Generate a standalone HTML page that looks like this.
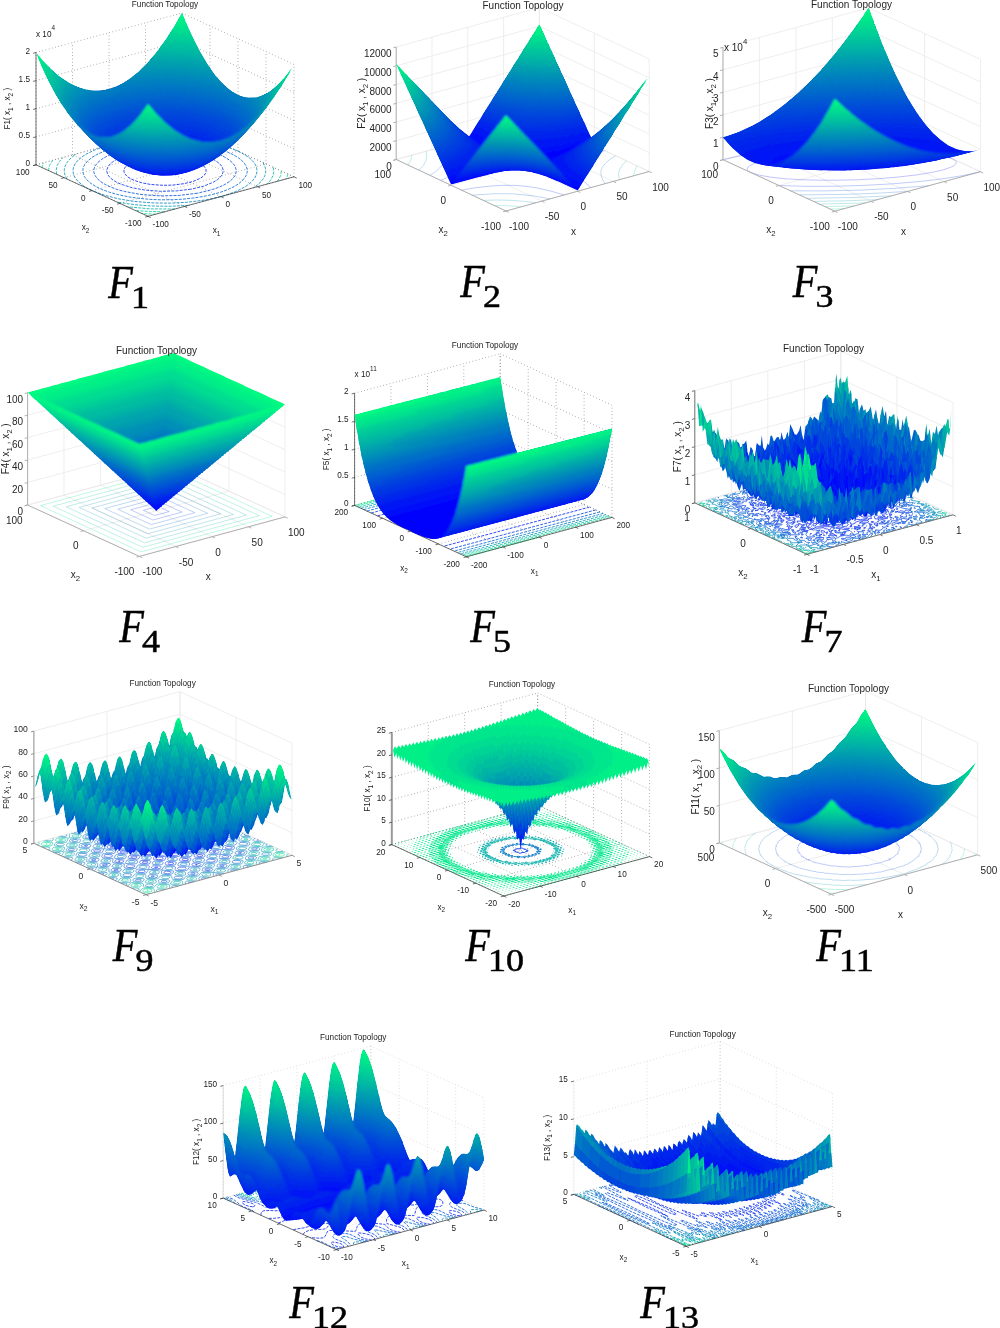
<!DOCTYPE html>
<html lang="en"><head><meta charset="utf-8"><title>Function Topology</title>
<style>html,body{margin:0;padding:0;background:#fff}svg{display:block}</style></head>
<body>
<svg width="1000" height="1328" viewBox="0 0 1000 1328" font-family="Liberation Sans, Arial, sans-serif">
<defs><filter id="sb" x="-5%" y="-5%" width="110%" height="110%"><feGaussianBlur stdDeviation="3.4"/></filter></defs>
<rect width="1000" height="1328" fill="#fff"/>
<g id="f1">
<path d="M148 216.3L36 164.8M36 164.8L36 52.5M184.5 206.4L72.5 155M72.5 155L72.5 42.6M221 196.6L109 145.1M109 145.1L109 32.7M257.5 186.7L145.5 135.2M145.5 135.2L145.5 22.9M294 176.8L182 125.4M182 125.4L182 13M148 216.3L294 176.8M294 176.8L294 64.5M120 203.4L266 163.9M266 163.9L266 51.6M92 190.6L238 151.1M238 151.1L238 38.7M64 177.7L210 138.2M210 138.2L210 25.9M36 164.8L182 125.4M182 125.4L182 13M36 164.8L182 125.4M182 125.4L294 176.8M36 136.8L182 97.3M182 97.3L294 148.7M36 108.7L182 69.2M182 69.2L294 120.6M36 80.6L182 41.1M182 41.1L294 92.5M36 52.5L182 13M182 13L294 64.5" fill="none" stroke="#444" stroke-width="0.6" stroke-dasharray="0.7 2.6"/>
<g transform="scale(.1)" fill="none" stroke-width="8" stroke-dasharray="30 12">
<path stroke="#001af2" d="M1838 1837l-110 14-99 2-120-8-91-17-83-26-59-33-30-33-7-23 1-16 8-19 16-19 46-32 75-30 94-21 93-10 111-2 108 8 91 16 71 22 63 32 22 18 16 21 6 15 1 20-6 18-11 17-24 21-23 14-68 29-91 22"/>
<path stroke="#0033e6" d="M1910 1892l-147 17-155 4-157-12-127-23-112-35-45-20-37-23-30-25-21-27-10-30 1-24 11-28 22-28 25-20 40-25 99-39 123-29 147-18 155-3 157 11 127 23 112 35 45 21 37 23 30 24 21 27 10 30-1 25-11 27-22 28-25 21-40 24-99 40-123 29"/>
<path stroke="#004cd9" d="M1974 1932l-182 22-192 5-190-14-163-30-75-20-64-24-55-26-46-28-35-32-24-34-10-30 2-33 14-33 25-31 37-30 46-28 59-26 67-23 154-35 187-21 179-3 182 14 163 29 75 21 64 23 55 26 46 29 35 31 20 27 13 36 0 32-11 30-23 31-30 27-49 31-57 27-65 23-152 37"/>
<path stroke="#0066cc" d="M2026 1966l-105 16-95 10-104 5-115 1-105-4-113-11-99-14-103-21-90-25-65-23-67-31-55-34-43-38-25-34-13-38 1-40 15-37 32-39 42-34 51-30 70-32 66-23 88-23 97-20 106-15 97-9 108-4 114 0 106 6 110 11 181 33 90 24 65 24 67 31 55 34 43 37 25 34 13 37 1 33-13 37-28 39-41 36-49 31-57 27-77 29-86 24-95 20"/>
<path stroke="#0080bf" d="M2210 1966l-157 34-174 22-174 10-184-3-180-15-153-25-141-36-127-47M2380 1511l52 27 45 28 31 25 30 32 18 28 11 31 3 33-7 32-16 33-24 31-31 28-41 29-48 26-58 27-135 45M920 1906l-52-27-45-29-37-31-27-30-18-31-9-30-1-33 8-32 17-32 28-32 33-28 38-26 100-49 135-45M1090 1451l157-34 174-23 174-9 184 2 180 16 153 25 141 35 127 48"/>
<path stroke="#0099b2" d="M1884 2054l-186 9-187-3-173-14-167-25M2630 1626l18 33 8 30 1 33-7 30-16 34-24 31-32 30-42 30M670 1791l-18-34-8-30-1-33 7-30 16-33 24-31 32-30 42-31M1416 1363l181-10 178 3 182 14 172 26"/>
<path stroke="#00b2a6" d="M1748 2090l-244-1-230-21M2734 1674l4 42-8 41-23 43-35 41M566 1743l-4-43 9-43 22-40 35-41M1552 1326l236 2 121 8 117 12"/>
<path stroke="#00cc99" d="M1645 2118l-140-3-151-10M2814 1710l-9 49-30 54M486 1706l3-27 8-27 28-48M1655 1298l140 3 151 11"/>
<path stroke="#00e68c" d="M1557 2142l-136-6M2881 1741l-18 48M419 1676l18-48M1743 1274l136 7"/>
</g>
<path d="M36 164.8L148 216.3L294 176.8" fill="none" stroke="#333" stroke-width="0.7"/>
<path d="M36 164.8L36 52.5" fill="none" stroke="#333" stroke-width="0.7"/>
<path d="M148 216.3l-2.9 0.8M120 203.4l-2.9 0.8M92 190.6l-2.9 0.8M64 177.7l-2.9 0.8M36 164.8l-2.9 0.8M148 216.3l2.7 1.3M184.5 206.4l2.7 1.3M221 196.6l2.7 1.3M257.5 186.7l2.7 1.3M294 176.8l2.7 1.3M36 164.8l-2.9 0.8M36 136.8l-2.9 0.8M36 108.7l-2.9 0.8M36 80.6l-2.9 0.8M36 52.5l-2.9 0.8" fill="none" stroke="#333" stroke-width="0.7"/>
<clipPath id="f1c"><path clip-rule="evenodd" d="M1056 230l-12 19-18 24-26 30-13 13-23 19-21 13-29 12-17 3-35-1-26-8-30-17-26-21-22-22-17-20-16-22-8-14-7-8-27-45-18-34-35-73-22-54-19 32-6 13-29 44-3 7-41 57-28 32-7 10-39 39-33 27-35 22-22 11-29 10-22 5-23 2-28-1-28-5-38-14-22-11-38-25-28-24-40-41-26-32 22 54 25 53 28 54 27 45 7 8 2 5 7 8 9 15 41 50 58 61 41 37 27 21 37 25 31 17 32 15 38 13 36 8 31 3 37 0 21-2 47-10 29-10 38-17 40-23 53-39 36-32 36-36 35-39 48-60 56-80 38-61z"/></clipPath>
<g transform="translate(30,7) scale(0.25)" fill-rule="evenodd">
<g id="f1s">
<path fill="#000bfa" d="M612 666l-4-3-9 3-2-1-15 4-1-1-3 1-2 3-1-2-6-1-3 1-2 3-4-3-40 1-4-2-16 0-4-2-7 1-1 2 35 4 37 0 21-2z"/>
<path fill="#0012f6" d="M645 654l-3-1-22 7-23 4-43 4-65-3-4-2-22-2-20-6-3 1 0 2 47 12 41 4 52-2 48-10 17-6z"/>
<path fill="#0019f3" d="M402 641l1 2 25 11 35 10 22 2 4 2 9 1 24 0 12 2 51-2 3-2 27-3 42-12 17-8-3-2-48 15-17 1-8 3-18 0-4 2-12-1-4 2-13 0-7-2-7 2-11 0-4-2-8 1-11-2-23-1-19-5-13-1-9-4-17-4-8-4-1 1-4-3z"/>
<path fill="#0020ef" d="M699 631l-3-1-24 11-11 2-13 5-18 3-11 0-11 4-14-1-6 3-27 0-4 2-12 0-7-2-29 1-4-2-6 1-4-2-9 2-6-3-5 1-6-3-9 1-6-3-8 0-6-3-14-1-31-11-4 2 32 14 12 2 8 4 14 1 19 5 23 1 11 2 8-1 4 2 12 0 3-2 10 2 14 0 3-2 13 1 3-2 19 0 7-3 11 0 10-2 3-2 19-4 24-8 22-10z"/>
<path fill="#0027ec" d="M723 618l-6 0-19 10-1-1-20 8-32 6-12 5-20 0-6 3-16-1-6 3-11-1-4 2-6-1-4 2-9-2-7 2-5-2-6 2-21 0-4-2-6 1-4-2-15 0-6-3-9 2-6-3-4 1-6-3-9 0-6-3-13 0-7-4-15-2-9-5-15-4-15-8-3 2 32 18 25 7 8 4 15 1 5 3 9 0 5 3 10-1 5 3 6-1 5 3 10-2 3 2 7-1 4 2 29-1 7 2 13 0 3-2 28 0 5-3 14 1 11-4 11 0 22-4 35-12 21-10zM598 506l1 4 4 3 34 16 21 7 34 7 32 0 4-3-1-4-11-3-29-16-7 5-14-10-3-1-7 4-9-8-3-1-6 4-6-6-3-1-6 4-4-2-3 1-3 3-6-7-3-1-3 1z"/>
<path fill="#002ee8" d="M1035 264l-15 20-18 20-21 20-24 18-34 17-17 5-35 1-14-2-21-7-14-7-18-11-17-13-31-30-17-20-16-22-8-14-7-8-27-45-35-68-18-39-20-49-17 27-9 18-26 39-3 7-41 57-28 32-7 10-39 39-33 27-35 22-24 12-29 10-22 5-23 2-28-1-28-5-38-14-24-12-38-25-39-35-29-30-16-20 16 40 25 53 28 54 27 45 7 8 2 5 7 8 9 15 41 50 58 61 41 37 27 21 10 6 4 6 21 14 20 10 15 4 12 6 15 2 6 4 14 0 5 3 10 0 5 3 5-1 5 3 10-2 5 3 5-1 5 3 6-2 5 3 4-2 5 2 22 0 3-2 6 2 5-2 13 2 3-2 7 1 3-2 12 1 5-3 17 1 5-3 20 0 8-4 20-3 16-4 18-7 1 1 1-2 2 1 19-9 20-12 4-6 13-8 51-41 52-51 35-39 48-60 16-24 15-19 25-37zM613 514l6-6 4 4 6-6 9 9 6-6 13 11 6-6 18 13 6-7 14 9 24 10-10 1 2 0 0 2-25 0-18-3-34-10-25-12 2-1zM601 507l3-3 6 7-2 1z"/>
<path fill="#0035e4" d="M1035 264l-15 20-18 20-21 20-24 18-34 17-17 5-35 1-14-2-21-7-14-7-18-11-17-13-31-30-17-20-16-22-8-14-7-8-27-45-35-68-18-39-20-49-17 27-9 18-26 39-3 7-41 57-28 32-7 10-39 39-33 27-35 22-24 12-29 10-22 5-23 2-28-1-28-5-38-14-24-12-38-25-39-35-29-30-16-20 16 40 25 53 28 54 27 45 7 8 15 24 44 54 31 34 46 45 22 19 28 21 0 3 30 19 16 8 21 5 11 6 11 0 5 4 14 0 6 4 10-1 5 3 4-1 6 4 10-2 5 3 5-2 5 3 10-3 5 3 4-2 5 2 6-2 5 3 6-3 11 5 4-3 6 2 4-3 13 3 3-2 6 1 5-3 12 2 4-3 18 1 4-3 18 0 4-4 26-2 28-8 22-9 2 1 14-7 1-2 8-3 18-12 6-8 23-17 36-32 36-36 35-39 48-60 16-24 15-19 25-37zM570 487l6-5 4 6 6-6 9 11 6-6 4 5 6-6 9 11 6-7 4 5 6-6 9 9 6-7 14 12 5-7 14 11 6-7 26 17 22 9 12 2 2 2-4 6-3 1-1 3-12 2-40 0-34-7-32-12-35-19-20-14 2-1z"/>
<path fill="#003ce1" d="M1035 264l-15 20-18 20-21 20-24 18-34 17-17 5-35 1-14-2-21-7-14-7-18-11-17-13-31-30-17-20-16-22-8-14-7-8-27-45-35-68-18-39-20-49-17 27-9 18-26 39-3 7-41 57-28 32-7 10-39 39-33 27-35 22-24 12-29 10-22 5-23 2-28-1-28-5-38-14-24-12-38-25-39-35-29-30-16-20 16 40 25 53 28 54 27 45 7 8 2 5 7 8 9 15 41 50 58 61 41 37 13 10-1 2 25 18 21 11 28 8 9 5 12 0 8 5 9-1 6 4 14-1 5 3 6 0 5 3 10-2 5 3 5-1 5 3 5-2 5 3 9-4 6 3 5-2 5 3 6-3 9 5 5-2 7 2 4-3 6 2 5-3 9 3 7-3 6 2 4-4 18 4 4-4 12 1 4-3 24 0 4-4 9 0 23-4 22-6 21-9 3 1 19-11 1 1 1-2 2 0 31-22 3-3-2-1 6-4 36-32 36-36 35-39 48-60 16-24 15-19 25-37zM312 515l3-1 13 3-2 2-3 0-1 3-3 0 0-2-3 0zM380 492l-5 4 2 1-2 2-36 18-5 1-1-2-3 2-5-8 3-1 8 2-4-7 1-1 22 0-4-7 1-1 8 0 18-4zM552 472l10-9 5 6 6-6 4 7 6-6 9 12 6-6 4 5 6-6 5 6 5-7 9 11 6-7 5 5 6-7 13 14 6-7 9 8 6-7 14 13 4 2 5-7 19 12 29 13 13 2 2 2-5 7 15 1 2 2-11 11-33 6-40 0-18-3-34-10-36-17-34-22-7-7-9-6 0-3z"/>
<path fill="#0043dd" d="M1035 264l-15 20-18 20-21 20-24 18-34 17-17 5-35 1-14-2-21-7-14-7-18-11-17-13-31-30-17-20-16-22-8-14-7-8-27-45-35-68-18-39-20-49-17 27-9 18-26 39-3 7-41 57-28 32-7 10-39 39-33 27-35 22-24 12-29 10-22 5-23 2-28-1-28-5-38-14-24-12-38-25-39-35-29-30-16-20 16 40 25 53 28 54 27 45 7 8 2 5 7 8 9 15 41 50 58 61 38 34-2 1 34 25 27 12 12 4 11 1 5 5 14 1 6 4 13 0 6 4 9-1 6 4 7-2 8 4 4-2 6 4 9-3 6 4 4-2 6 3 5-2 5 3 6-2 5 3 5-2 5 3 4-3 6 3 6-3 5 3 4-3 6 2 5-3 11 4 5-3 5 2 5-4 12 3 4-4 12 3 4-4 18 2 4-4 18 0 4-4 15 0 23-4 22-6 28-12 2 1 29-16 23-18-2-1 32-28 36-36 35-39 48-60 16-24 15-19 25-37zM414 463l-7 6 2-1 0 3-12 11-12 8-7 7-21 12-18 8-17 5-27 1-1-2-7-1 1-2 3 1-3-3 1-2 9 3-3-6 1-2 4 2-3-5 1-2 9 2-4-6 1-1 10 2-4-7 1-1 16 2-4-7 1-1 16 0-4-7 1-1 20-1 17-3 28-8 9-5zM528 451l5-5 4 7 6-5 5 7 5-6 5 7 6-6 4 7 6-6 4 6 6-6 5 7 6-7 4 6 6-6 4 6 6-7 9 11 6-7 5 6 5-7 9 10 6-7 9 9 6-7 13 13 6-8 14 12 6-8 18 13 21 11 17 6 13 2 2 2-5 6 13 2-5 7 12 1-4 7-3 2 0 2-27 9-29 5-40 0-18-3-34-10-36-17-34-22-40-34 0-3z"/>
<path fill="#004ada" d="M1035 264l-15 20-18 20-21 20-24 18-34 17-17 5-35 1-14-2-21-7-14-7-18-11-17-13-31-30-17-20-16-22-8-14-7-8-27-45-35-68-18-39-20-49-17 27-9 18-26 39-3 7-41 57-28 32-7 10-39 39-33 27-35 22-24 12-29 10-22 5-23 2-28-1-28-5-38-14-24-12-38-25-39-35-29-30-16-20 16 40 25 53 28 54 27 45 7 8 2 5 7 8 9 15 41 50 31 34 46 45 8 6-2 1 13 12 29 18 15 5 7 4 12 2 8 6 18 1 6 5 13 0 6 4 9-1 6 5 9-2 8 4 7-3 6 4 5-1 5 3 10-3 5 3 4-2 6 4 5-3 5 4 5-3 6 3 5-2 5 3 5-3 5 3 5-3 6 2 4-3 12 5 4-4 6 2 5-3 9 3 10-3 8 3 5-4 12 2 4-4 18 2 4-5 23 1 5-5 9 0 39-8 27-11 6 0 33-17 28-23-1-1 52-51 53-61 30-38 16-24 15-19 25-37zM431 444l-6 6 2-1 0 3-30 30-3 1-19 16-36 18-17 5-35 1-14-2-1-1 3-1-5-1-2-2 4 0-2-3 1-2 2 1-2-5 4 0-3-4 1-2 9 4-2-4 1-2 2 1-3-6 1-2 10 4-4-7 3-1 8 3-4-7 3-1 8 2-4-7 1-1 16 2-4-8 1-1 20 1 2-2-4-6 1-1 35-5 10-4 14-3 21-10 3 2 3 6 9-5zM510 432l3-3 5 8 6-6 4 8 12-11 4 7 6-6 5 8 6-6 4 7 6-7 4 7 6-6 5 7 6-7 4 6 6-6 4 6 6-7 9 12 6-7 4 6 6-7 9 11 6-8 9 10 6-7 9 9 6-7 13 12 6-8 14 13 4 2 6-8 14 10 21 11 17 6 8 1 2 2-4 7 16 2 1 1-5 7 10 0 1 1-4 6 8 0-5 6 7 0-7 4 2 1-24 11-22 7-29 5-40 0-34-7-18-6-36-17-34-22-40-34-13-14 1-2z"/>
<path fill="#0051d6" d="M1035 264l-15 20-18 20-21 20-24 18-34 17-17 5-35 1-14-2-21-7-14-7-18-11-17-13-31-30-17-20-16-22-8-14-7-8-27-45-35-68-18-39-20-49-17 27-9 18-26 39-3 7-41 57-28 32-7 10-39 39-33 27-35 22-24 12-29 10-22 5-23 2-28-1-28-5-38-14-24-12-38-25-39-35-29-30-16-20 16 40 25 53 28 54 27 45 7 8 2 5 7 8 9 15 41 50 31 34 38 37-2 1 8 8 15 12 19 11 22 10 19 4 6 6 17 1 6 5 14 0 6 5 9-1 5 4 6 0 3-2 6 5 9-3 7 5 8-4 6 5 4-2 6 4 5-2 5 3 10-4 5 3 6-2 5 3 4-3 6 4 4-3 6 3 5-3 10 5 6-3 6 3 4-4 6 2 4-3 11 4 7-4 10 4 5-4 11 3 5-5 12 2 4-4 18 2 4-5 20 1 12-6 10 0 28-6 29-10 7-4 2 1-2 2 17-9 2 1 14-8 1-2 2 0 20-14 14-14-2-1 38-37 53-61 30-38 16-24 15-19 25-37zM447 423l-4 6 2-2 1 2-10 13-18 20-21 20-3 1-19 16-36 18-17 5-35 1-14-2-19-7-1-1 2-1-3 0-3-3 4 0-2-3 1-2 3 2-3-4 4 0-3-3 1-2 3 1-2-3 1-2 8 4-3-6 1-1 4 2-3-4 1-2 3 1-3-5 1-2 9 4-3-6 1-2 10 4-3-6 1-2 9 2-4-7 1-1 10 2-4-7 1-1 17 2-4-7 1-2 21 0-4-8 1-1 26-3 21-5 15-5 19-9 5 9 23-13 4 8 7-4zM498 419l6-6 5 8 12-11 4 8 6-5 4 7 6-6 5 8 11-12 5 7 6-6 4 7 6-6 5 7 5-7 5 7 6-7 9 13 6-7 4 6 6-7 4 6 6-7 9 11 6-7 9 11 6-8 9 10 6-8 9 10 5-9 14 13 6-8 18 15 5-9 19 13 12 6 18 7 12 2 2 2-5 8 16 1 1 1-5 8 12-1 1 1-5 7 8 0-5 7 7 0-4 6 3-2 4 1-4 4 2 1-7 5-30 14-27 9-29 5-40 0-34-7-18-6-36-17-34-22-40-34-32-33z"/>
<path fill="#0059d3" d="M1035 264l-15 20-18 20-21 20-24 18-34 17-17 5-35 1-14-2-21-7-14-7-18-11-17-13-31-30-17-20-16-22-8-14-7-8-27-45-35-68-18-39-20-49-17 27-9 18-26 39-3 7-41 57-28 32-7 10-39 39-33 27-35 22-24 12-29 10-22 5-23 2-28-1-28-5-38-14-24-12-38-25-39-35-29-30-16-20 16 40 25 53 28 54 27 45 7 8 2 5 7 8 9 15 41 50 53 56-2 1 18 17 18 13-1-1 2-1 6 5 12 6 21 7 8 7 7 2 15 1 6 6 14 0 5 5 14-2 6 6 9-2 5 5 9-3 7 5 8-4 6 5 5-2 5 4 9-4 6 4 5-2 6 4 4-3 6 4 4-3 6 4 5-3 5 3 5-3 6 3 5-3 5 3 5-4 5 3 6-3 10 5 5-4 6 3 4-4 11 4 6-4 11 3 5-4 11 3 5-5 17 3 5-5 17 2 5-5 29-1 5-6 8 0 8-3 14-2 24-9 2 1-2 3 25-13 2 1-2 2 12-8 2 1 12-9 1 1 23-18 11-11-2-1 45-47 41-49 53-71 25-37zM464 399l-3 5 2 1-1 3-26 34-31 33-20 15-7 7-21 12-18 8-17 5-35 1-14-2-21-7-9-5 0-2-5-5 1-2 3 2-3-3 1-2 3 2-3-3 1-2 3 1-2-4 1-1 3 2-3-5 1-1 3 2-3-5 4 0-2-3 1-2 3 1-3-5 2-1 8 4-3-6 2-1 3 2-4-8 1-1 10 5-4-8 1-1 10 4-3-6 1-2 9 2-4-7 1-1 16 3-4-8 17 0-4-8 1-1 28-1-4-8 1-2 18-2 39-13 2 1 4 8 16-7 12-8 5 10 17-11 5 9 17-13zM487 404l9-8 5 8 11-10 4 8 6-5 4 8 12-12 5 8 5-6 5 7 6-6 4 8 6-7 5 7 5-6 5 7 6-7 4 7 6-7 5 7 5-8 5 7 6-7 9 12 6-7 4 6 6-8 9 12 6-8 9 11 5-8 9 10 6-8 14 14 6-9 9 10 4 2 6-8 22 17 6-9 17 10 18 8 8 2 2 2-5 7 20 4 1 1-4 8 12 1-5 7 12-2 1 1-5 8 7-2 1 1-5 7 6-2 1 1-4 6 5-1 1 2-6 6 2 1-19 12-30 14-27 9-29 5-40 0-34-7-18-6-36-17-34-22-40-34-34-35-9-12z"/>
<path fill="#0060cf" d="M1035 264l-15 20-18 20-21 20-24 18-34 17-17 5-35 1-14-2-21-7-14-7-18-11-17-13-31-30-17-20-16-22-8-14-7-8-27-45-35-68-18-39-20-49-17 27-9 18-26 39-3 7-41 57-28 32-7 10-39 39-33 27-35 22-24 12-29 10-22 5-23 2-28-1-28-5-38-14-24-12-38-25-39-35-29-30-16-20 16 40 25 53 28 54 27 45 16 21 6 11 23 29 38 44 23 24-2 1 15 15 22 17 13 8 30 13 17 4 6 0 6 6 3 1 15 0 6 5 13-1 6 5 9-2 6 5 9-2 6 5 9-3 5 4 5-1 6 4 9-4 6 4 4-2 6 4 4-2 6 4 5-3 5 4 9-6 6 4 5-4 11 8 5-4 6 3 5-3 5 3 5-4 5 3 6-4 11 5 4-4 6 2 4-4 12 4 5-5 11 4 5-5 11 3 5-5 17 3 5-5 23 2 5-6 14 0 24-3 33-9 30-14 2 1-2 2 18-11 2 1 11-8 3 0 27-22-1-2 41-43 41-49 53-71 25-37zM475 388l-1 2-2-2-1 1 0 6-35 47-31 33-30 24-36 18-17 5-9 1-35-1-32-11-18-10 2-1-5-5 3 0-2-2 1-2 3 2-3-3 2-1 2 2-2-3 1-2 3 2-7-10 1-2 2 1-2-4 2-1 8 5-3-4 1-2 3 2-3-5 4 0-3-6 1-1 4 2-3-6 2-1 8 4-3-4 1-2 4 1-4-7 1-2 10 5-4-7 1-2 10 4-4-8 1-1 10 3-4-8 1-2 16 4-4-8 1-2 22 2-4-8 1-2 20 0 39-8 29-11 16-9 5 9 11-5 12-9 5 9 17-12 5 9 11-9zM474 390l13-11 5 8 11-10 4 8 6-5 5 8 11-11 5 8 6-6 4 8 6-7 4 8 6-6 5 7 11-13 5 7 6-7 9 15 5-7 5 7 6-8 4 7 6-8 5 7 5-8 9 13 6-8 5 6 6-8 8 12 6-9 9 11 6-8 9 10 6-9 13 14 6-8 18 16 6-9 14 11 21 12 18 8 27 6 1 1-5 8 17 1-5 8 11 0-4 7 7 0-3 6 6-2 2 1-5 7 6-3 2 1-5 6 1 3-3 4 5-3 2 1-7 6 1 1-31 20-30 14-27 9-29 5-40 0-34-7-18-6-36-17-34-22-40-34-34-35-22-27z"/>
<path fill="#0067cc" d="M1035 264l-15 20-18 20-21 20-24 18-34 17-17 5-35 1-14-2-21-7-14-7-18-11-17-13-31-30-17-20-16-22-8-14-7-8-27-45-35-68-18-39-20-49-17 27-9 18-26 39-3 7-41 57-28 32-7 10-39 39-33 27-35 22-24 12-29 10-22 5-23 2-28-1-28-5-38-14-24-12-38-25-39-35-29-30-16-20 16 40 25 53 28 54 27 45 7 8 15 24 56 68 17 17-2 1 13 14 20 17 6 1 6 5 21 11 17 6 8 1 8 7 18 2 6 6 18-1 6 6 9-2 6 6 9-3 5 6 9-3 7 5 8-4 6 6 9-5 6 5 4-3 6 5 5-2 5 4 9-6 6 5 5-4 6 5 4-4 6 4 4-3 6 4 5-4 6 4 5-4 11 7 4-5 6 4 5-5 5 3 5-4 11 5 5-4 12 4 4-5 12 4 4-5 12 4 4-5 12 2 5-5 23 3 4-6 21 1 3-1 4-5 15-1 27-6 24-8 14-7 2 1-2 3 18-10 0 3 18-12 2 1 7-6 1 1 4-4 3 0 6-6 1 1 26-27-2-1 33-36 26-32 53-71 25-37zM213 485l2-1 2 2-3-3 2-1 2 2-2-3 1-1 3 2-7-10 3 0-2-3 1-2 3 2-3-4 1-1 3 2-2-4 3 0-3-5 2-1 3 2-3-5 2-1 9 6-4-7 4 0-3-5 1-2 4 2-3-5 1-2 8 4-2-5 1-2 10 4-4-7 1-2 10 4-4-8 3-1 8 3-4-8 3-1 8 2-4-8 1-1 22 3-4-8 1-2 22 0-4-8 1-2 19-1 22-5 29-10 11-6 5 10 23-13 4 9 2 0 15-9 6-6 5 10 12-9 4 8 2 0 10-8 5 8 11-9 5 8 11-11 5 9 11-12 5 9 6-6 4 8 6-6 4 8 12-13 5 8 5-7 5 8 6-7 4 8 6-7 4 7 6-7 5 7 6-8 9 15 5-8 5 7 6-8 4 6 6-8 9 13 6-8 9 12 6-9 9 11 5-8 9 10 6-8 9 9 6-9 18 18 6-9 18 14 6-9 30 19 18 7 12 2 2 2-5 8 16 2 1 1-4 8 14 0 1 2-3 6 8 0-5 7 6-2 2 1-5 8 7-3 1 1-5 7 6-3 1 2-4 5 4-2 2 1-3 4 3 1-13 16-35 22-35 16-22 7-29 5-40 0-34-7-32-12-22-11-34-22-40-34-34-35-11-15-13-14-10 16-26 34-31 33-30 24-36 18-17 5-9 1-26 0-14-2-21-7-23-12-14-10 2-1z"/>
<path fill="#006ec8" d="M1035 264l-15 20-18 20-21 20-24 18-34 17-17 5-35 1-14-2-21-7-14-7-18-11-17-13-31-30-17-20-16-22-8-14-7-8-27-45-35-68-18-39-20-49-17 27-9 18-26 39-3 7-41 57-28 32-7 10-39 39-33 27-35 22-24 12-29 10-22 5-23 2-28-1-28-5-38-14-24-12-38-25-39-35-29-30-16-20 16 40 25 53 28 54 27 45 16 21 6 11 39 47 8 13 14 12 1 2-2 1 21 21 28 20 6 3-1-2 2-1 11 5 13 10 11 2 3 2 18 2 6 6 3 1 15-1 6 6 9-1 5 6 14-3 6 6 9-3 6 5 9-3 5 5 5-2 6 5 9-5 5 5 5-2 6 5 9-6 6 5 4-4 6 5 4-3 6 4 5-4 6 5 4-4 6 4 4-4 6 4 5-4 6 3 4-4 12 7 4-4 6 3 4-5 12 6 5-5 5 3 5-5 11 4 5-5 12 4 4-5 18 5 4-6 12 2 4-6 24 3 4-6 21 0 26-4 6-7 11-2 7-3 3 1-3 4 18-6 26-14 2 1-2 3 18-12 0 3 6-5 2 1 11-9 3 0 6-6 1 1 27-28-2-1 23-25 48-60 56-80zM877 460l-3 5 1 2-3 3 4 0-8 10-8 5-7 7-35 22-30 14-23 8-33 6-40 0-18-3-34-10-36-17-34-22-28-23-46-46-23-29-37 50-31 33-30 24-18 10-27 11-17 3-26 0-14-2-21-7-23-12-20-15 2-1-5-5 2-1-4-5 1-2 1 1-2-2 1-1 3 2-7-10 1-2 3 2-3-3 1-2 3 2-2-3 3 0-2-4 1-1 3 2-3-4 1-2 3 2-3-5 2-1 3 2-3-4 1-2 3 1-3-5 1-1 10 6-4-7 4 0-3-6 1-1 10 5-3-6 1-2 3 1-3-6 3-1 8 4-4-8 1-2 10 4-4-7 1-2 16 5-4-9 3-1 8 2-4-9 3-1 20 3-4-8 1-2 37-2 7-2 1-2-4-7 1-2 23-6 5 10 15-5 31-16 5 10 23-15 4 9 2 0 10-8 4 9 2 0 16-13 4 8 12-9 5 8 11-10 5 9 5-5 5 9 12-13 4 8 6-5 5 8 11-13 5 9 5-7 5 8 6-7 4 8 6-7 5 8 5-8 5 8 6-7 4 7 6-8 4 8 6-8 7 9 2 5 6-8 5 7 5-9 9 13 6-8 5 6 6-9 9 12 5-8 9 11 6-9 14 15 5-9 9 10 6-10 18 17 6-9 23 18 13 7 4-8 3-2 17 9-5 8 1 2 23 6 10 1 1 1-5 7 2 2 14-1 1 1-5 8 8 0-5 8 6-2 5 1-3 7 5-2 2 1-4 7 5-3 2 1-4 6 1 3-3 4 5-3z"/>
<path fill="#0075c5" d="M1035 264l-15 20-18 20-21 20-24 18-34 17-17 5-35 1-14-2-21-7-14-7-18-11-17-13-31-30-17-20-16-22-8-14-7-8-27-45-35-68-18-39-20-49-17 27-9 18-26 39-3 7-41 57-28 32-7 10-39 39-33 27-35 22-24 12-29 10-22 5-23 2-28-1-28-5-38-14-24-12-38-25-39-35-29-30-16-20 25 60 44 87 27 45 16 21 6 11 28 34 9 15 9 10 3 1 2-1-9-14 1-2 2 2-3-3 1-1 3 2 0-3 2 2-6-9 1-2 1 1-2-4 1-1 3 2-3-4 1-1 3 2-2-3 1-2 2 2-3-5 2-1 3 2-3-5 1-1 4 3-4-7 2-1 3 2-3-4 1-2 9 5-3-5 1-2 4 2-3-5 1-2 3 2-4-8 1-2 10 5-3-6 2-1 8 4-3-6 1-2 10 3-4-8 1-2 10 4-4-8 1-2 16 4-4-8 1-2 16 3-4-9 1-2 28 1-4-8 3-3 11 0 22-4 9-4 8-1 27-12 2 1 5 9 28-16 4 9 2 0 16-11 5 9 17-13 4 9 12-9 5 10 11-11 5 10 11-12 5 10 12-13 4 9 6-6 4 8 6-5 5 8 11-13 5 8 6-7 4 8 6-6 5 8 5-8 5 9 6-8 4 8 6-8 5 8 5-8 5 7 6-8 9 15 5-9 5 7 6-8 4 7 6-9 9 13 6-9 9 13 6-9 9 11 6-9 8 11 6-9 14 15 6-10 13 14 6-10 22 19 6-10 18 12 8 3 9 6 28 9-5 8 6 2 14 0 1 1-5 9 12-1 1 1-5 8 12-2 1 1-5 8 5-2 2 2-4 7 6-3 1 2-4 6 5-3 2 1-4 7 5-3 2 1-4 5 2-1 1 2-4 5 2 1-3 4 4-3 2 1-6 7 2 1-32 27-35 22-30 14-23 8-33 6-40 0-18-3-34-10-36-17-34-22-28-23-46-46-23-29-37 50-31 33-30 24-36 18-17 5-9 1-26 0-14-2-21-7-21-11-10-8-5-2-6-6-6 0 8 9 10 8-1 1 1-1 15 13-1-2 2-1 15 11 12 6 18 7 14 3 6 7 22 2 6 6 13-1 6 6 14-2 6 6 9-3 5 6 9-3 6 6 9-4 7 5 8-5 6 6 4-3 6 6 5-3 5 5 9-6 6 5 5-4 6 5 4-4 6 5 4-4 6 5 5-4 6 4 4-4 6 4 4-4 6 3 5-4 11 7 5-4 6 3 4-5 6 3 4-5 12 6 5-5 11 5 5-6 11 5 5-6 12 4 4-6 18 4 4-6 18 3 4-6 26 1 3-1 5-6 8 0 34-6 23-8 14-7 2 1-3 4 16-8 10-7 2 1-2 3 13-10 2 1-2 3 11-10 3 1 5-5 1 1 6-6 2 0 25-25-2-2 15-16 26-32 53-71 25-37z"/>
<path fill="#007cc1" d="M1035 264l-15 20-18 20-21 20-24 18-34 17-17 5-35 1-1-3-13-1-21-7-30-17-12-10-3 1-35-33-17-20-16-22-8-14-7-8-27-45-35-68-18-39-20-49-17 27-9 18-26 39-3 7-41 57-28 32-7 10-39 39-33 27-37 23-3-1-19 10-29 10-22 5-29 2-1 2-9 0-40-6-38-14-24-12-38-25-39-35-29-30-16-20 16 40 25 53 28 54 27 45 16 21 6 11 17 21 4 9 30 35 9 7 7 8 5 1 15 12 22 12 18 7 28 5 5 7 18-1 6 7 14-2 5 6 9-2 6 6 9-3 6 7 9-4 7 6 8-5 7 6 8-5 5 6 5-3 6 5 4-3 6 6 9-7 6 5 4-3 6 5 5-4 6 5 4-4 6 4 4-4 6 5 5-5 5 4 5-4 6 4 4-5 12 8 4-5 6 4 5-5 6 3 4-5 12 6 4-5 12 5 4-6 11 5 6-6 11 4 5-5 11 3 5-6 17 3 5-6 10 2 13 0 5-6 32-1 21-4 10-4 11-2 9-5 17-6 13-8 2 1-1 3 18-12 2 1-1 2 12-9 2 1 5-5 2 1 5-5 2 0 8-6 24-25-2-1 53-65 16-24 15-19 25-37zM181 438l1-1 2 2-2-3 1-2 2 2-2-3 1-2 3 2-3-4 1-2 3 2-3-5 2-1 3 2-3-4 1-2 3 2-3-5 1-1 4 3-4-7 2-1 9 7-4-7 1-2 4 2-3-5 1-2 4 2-4-7 1-2 10 6-4-8 1-1 10 4-4-7 1-2 10 5-4-9 1-1 10 4-4-8 1-2 11 4-4-9 1-2 3 2 13 2-4-8 1-2 22 2-4-9 1-2 25 0 39-8 29-11 22-12 6 10 22-15 5 10 5-2 12-10 5 10 11-10 5 10 12-10 5 9 11-10 4 8 3-1 9-9 5 8 11-11 4 8 6-6 5 10 6-7 5 8 11-13 4 8 6-6 5 8 5-7 5 8 6-7 4 8 6-8 5 8 5-8 5 8 6-8 4 8 6-9 9 15 6-8 4 7 6-9 5 7 5-9 7 9 2 5 6-9 7 8 2 5 6-10 9 12 6-9 9 11 6-9 9 10 5-9 14 14 6-10 18 17 6-10 18 15 21 12 18 8 11 2 3 2 17 2 1 1-5 9 16 0 1 1-5 9 7-2 6 1-5 8 6-2 2 1-5 8 6-2 1 1-4 8 6-3 1 1-4 7 6-3 1 2-4 5 6-3 1 1-3 5 1 3-3 3 2-1 1 2-4 5 4-4 2 2-3 3 2 1-2 2 1 2-11 11-33 27-18 12-5 0-13 9-17 8-39 14-29 5-40 2-18-3-34-10-36-17-34-22-45-39-29-30-23-29-37 50-18 20-21 20-12 8-7 7-17 10-22 10-17 5-31 1-5-3-13-1-21-7-21-11-26-19-16-15 0-3-4-5 1-2-3-3 1-2-2-3 2-1 2 2-3-3 1-1 3 2z"/>
<path fill="#0083bd" d="M284 520l6 8 22 0 6 8 13-2 6 7 14-3 6 6 9-3 5 7 9-4 6 7 9-5 7 6 8-5 6 6 4-3 6 6 5-3 5 6 9-7 6 6 5-4 6 5 4-3 6 5 4-4 6 5 5-4 5 4 5-4 6 5 4-5 6 5 5-5 5 4 5-5 6 4 4-5 12 8 4-5 6 3 6-5 5 3 4-5 12 6 5-6 11 6 4-6 12 4 5-6 11 4 5-6 17 5 5-7 9 3 8 0 5-6 29 1 4-7-25 0-13-3-2 2-3 0-34-10-36-17-34-22-28-23-46-46-23-29-29 40-26 30-13 13-20 15-7 7-21 12-18 8-17 5-5 0-2-2zM1035 264l-15 20-18 20-21 20-24 18-34 17-17 5-7 0-1-2-31 1-4 9 20 1 1 1-5 9 11-1 1 2-4 7 5 0 6-3 2 1-5 8 7 0-4 8 6-3 1 2-4 6 5-3 2 1-4 7 5-3 2 1-4 5 2 0 1 2-4 5 2 1-3 4 4-3 2 1-3 4 1 2-3 3 2 2-5 6 2 1-19 19-28 22-3 0-22 16-20 11-6 8 10-5 14-10 4 0-2 3 13-9 0 3 12-10 2 1 5-5 2 1 13-12 1 1 14-14 8-11-2-1 17-19 54-73 25-37zM32 195l16 40 25 53 28 54 27 45 16 21 6 11 8 9 2 7 11 14 28 31 1-1 15 13-5-7-14-11-18-19 1-1-9-14 1-2 2 2 1-1-2-3 1-1 3 2-6-8 1-2 1 1-2-3 1-2 3 3-3-4 2-1 2 2-2-3 1-2 2 2-3-5 2-1 3 2-3-4 1-1 4 3-4-7 2-1 3 2-3-4 1-2 3 2-3-6 1-1 4 3-4-7 2-1 9 6-4-7 2-1 3 2-4-7 1-2 5 3-4-8 1-1 10 6-4-8 1-2 11 6-5-9 1-2 10 5-4-9 1-1 10 4-4-8 1-2 17 4-4-8 1-2 16 3-4-9 1-2 28 2-5-10-25-1-13-3-1 2-14-2-24-8-38-18-38-25-28-24-40-41zM795 329l-29-27-2 1-25-28-16-22-8-14-7-8-27-45-35-68-18-39-20-49-17 27-9 18-26 39-3 7-41 57-28 32-7 10-39 39-33 27-6 1-14 10-21 12 4 10 22-12 6-5 5 10 11-6 6-6 6 10 16-13 5 10 12-10 5 9 11-10 5 9 11-11 5 9 11-12 5 10 5-6 5 9 6-7 4 9 12-13 4 8 6-6 5 9 5-8 5 9 6-7 4 8 6-8 5 9 5-8 5 8 6-8 4 8 6-8 5 8 5-9 5 8 6-9 9 15 6-9 4 7 6-9 4 7 6-9 7 9 2 5 6-10 9 13 6-10 9 12 6-9 9 10 5-9 14 16 6-11 13 14 6-10 22 20z"/>
<path fill="#008aba" d="M907 450l-6 0-9 9-6 3-39 31-4 6 13-9 0 3 12-10 2 1 7-7 1 1 5-5 1 1 18-17zM311 521l6 7 13-2 6 7 10-2 3-2 6 7 9-3 6 7 9-5 7 7 8-5 6 7 4-3 6 6 9-6 6 6 4-3 6 6 9-7 6 6 4-4 6 5 5-4 5 6 5-4 6 5 4-5 6 5 5-4 5 5 5-5 6 5 4-5 6 4 5-5 5 4 5-5 12 8 4-5 6 3 4-5 12 7 5-6 5 3 5-6 12 6 4-6 12 5 4-6 12 4 4-6 18 5 4-7 18 4 4-7-25-6-5 1-12-4-36-17-34-22-45-39-29-30-23-29-37 50-18 20-21 20-12 8-7 7-21 12-18 8-8 0-9 3zM1035 264l-15 20-31 33-23 19-21 13-22 10-8 0-9 3-8 0-4 2-4 8 11 0-4 8 12-3 1 1-5 9 6-3 1 2-4 7 6-3 1 1-4 8 5-3 2 1-4 6 2-1 1 2-4 5 5-3 2 1-4 6 3 0-4 5 5-4 2 1-4 5 0 6-4 8 5 0 9-10 4-9 9-10 56-80zM32 195l25 60 44 87 27 45 16 21 5 9-1 3 28 35 11 11-19-22-2-4 1-1-3-3 1-2 2 0-6-8 1-2 2 2-2-2 1-2 2 2-6-10 1-1 2 2-2-3 1-2 2 2-2-3 1-2 3 3-2-3 1-2 3 3-3-5 1-2 3 2-3-4 1-2 3 2-3-5 1-1 4 3-3-6 2-1 2 2-3-5 1-2 3 2-4-7 2-1 10 7-4-7 2-1 3 2-4-8 1-1 10 6-4-7 1-2 5 3-4-8 1-1 10 5-4-8 1-2 10 5-4-9 1-2 11 5-5-9 1-2 16 5-4-8 1-2 17 3-5-10-18-3-7-3-2 2-29-11-24-12-38-25-39-35-29-30zM768 305l-19-23-2 1-8-8-9-12-15-24-7-8-27-45-44-87-29-69-17 27-9 18-26 39-3 7-45 62-24 27-7 10-39 39-12 10-3-1-24 19 3 10 2 0 16-12 5 10 17-14 4 9 12-9 5 9 11-10 5 10 11-12 5 10 6-6 5 8 11-12 4 9 6-6 5 10 11-15 5 10 6-8 4 8 6-6 4 8 6-7 5 9 5-8 5 8 6-8 4 8 6-8 5 9 5-9 5 8 6-8 4 7 6-8 5 6 4 9 6-9 4 7 6-9 7 9 2 5 6-9 4 7 6-10 9 13 6-10 9 13 6-10 9 11 6-10 13 16 6-10 13 15z"/>
<path fill="#0091b6" d="M329 518l6 7 13-4 6 7 9-4 6 7 9-5 6 7 8-5 6 6 5-2 6 6 9-6 5 6 5-4 6 7 9-8 5 6 5-4 6 6 4-4 6 5 5-4 5 5 5-4 6 5 4-5 6 5 5-5 5 5 5-5 6 5 4-6 6 5 5-6 11 9 5-6 6 4 4-6 12 8 4-6 6 3 4-6 12 6 5-6 10 5 6-6 11 5 5-7 17 6 5-7-19-6-7-4-1 2-6-2-22-11-34-22-45-39-29-30-23-29-37 50-31 33-35 27-18 9-3-1zM934 352l-21 8-5 8 1 1 9-3 1 2-4 7 6-3 1 1-4 8 6-3 1 1-4 8 6-4 2 1-4 6 2 1-4 6 6-3 1 1-3 5 2 1-4 5 5-4 1 1-3 5 1-1 1 2-3 3 0 6-4 6 1 2-4 5-2 0-3 5-5 2-26 26-13 10-4 7 11-10 3 1 20-17 2 0 20-24-2-1 1-2 9-7 8-11 5-15-1-4-2-1 3-10-4-4 2-6-6-8 0-5-3-1zM32 195l25 60 44 87 27 45 7 8 4 7-1 3 4 4 9 15 15 18-5-6-7-13 2-3 1 1-3-1 0-3-4-7 1-1 3 3 1-1-7-11 1-2 3 3-2-3 1-1 2 2-2-4 1-1 2 2-2-3 1-2 3 2-2-3 1-2 3 3-3-5 1-2 3 2-3-5 1-1 3 2-3-6 2-1 3 3-4-7 2-1 3 2-3-5 1-2 9 6-4-7 2-1 4 3-4-8 1-1 10 7-4-9 2-1 3 2-4-8 1-1 11 6-5-9 1-2 11 6-4-9 1-1 10 4-4-9 1-2 16 6-4-10-19-6-5-3-3 1-6-2-24-12-38-25-39-35-29-30zM750 286l-1-4-8-8-9-13-3 0-6-8-8-14-7-8-27-45-44-87-29-69-17 27-9 18-26 39-3 7-41 57-28 32-7 10-28 28-3-1-10 11-14 11 4 10 17-14 5 10 11-10 5 10 11-12 6 10 11-12 4 10 6-6 5 9 11-13 5 10 5-7 5 10 12-15 4 9 6-7 4 9 6-7 5 9 6-8 4 8 6-7 4 8 6-8 5 9 5-9 5 9 6-9 4 8 6-8 5 8 5-9 9 15 6-9 5 8 6-10 9 14 5-9 5 7 6-10 9 13 5-9 7 8 2 5 6-10 9 12 6-11 13 16z"/>
<path fill="#0098b3" d="M933 418l-4 0-35 36-4 6 13-11 1 1 0-2 9-8 0 3zM347 511l5 8 9-4 6 7 9-5 6 7 9-6 6 7 4-3 6 7 9-7 6 6 4-3 6 6 5-4 6 6 9-8 5 6 5-4 6 5 4-4 6 5 5-4 5 5 5-5 6 5 4-5 6 5 5-5 5 5 5-6 12 9 4-5 6 4 4-6 6 4 5-5 11 7 5-6 6 4 4-7 12 7 4-7 12 6 4-6 12 5 5-7-21-10-1 2-10-5-34-22-7-7-9-6-24-21-34-35-23-29-37 50-31 33-30 24-9 5-3-1zM1035 264l-15 20-18 20-21 20-24 18-9 5-3-1-15 8-4 9 5-3 2 2-4 7 6-4 1 2-4 7 6-4 1 1-4 7 2-1 1 2-4 5 6-4 1 1-4 6 2 1-5 10 3-1 0 2 3 0-4 5 1 3-4 5 5 0 11-15 4-10 19-25 25-37zM32 195l25 60 26 53 18 34 25 40 4 11 12 16 6 11 4 3-8-14 2-2-4-6 1-2-2-4 1-1 3 3-2-3 1-1 2 2-7-12 1-1 3 3-2-3 1-2 3 3-3-5 1-2 3 3-2-3 1-2 2 2-3-5 2-1 3 3-3-5 1-2 3 2-3-5 1-2 3 2-3-5 1-2 10 8-4-8 2-1 3 2-4-7 1-1 4 2-4-7 2-1 10 7-4-8 2-1 3 2-4-9 1-1 10 5-4-7 1-2 11 6-5-10 1-1 11 5-4-10-19-9-3 1-12-6-38-25-39-35-29-30zM732 263l0-2-13-19-3-1-8-10-33-56-38-76-29-69-17 27-9 18-26 39-3 7-30 40-5 9-41 50-11 11-1-2-20 19 4 10 3-1 9-9 5 10 11-11 5 9 11-12 4 10 6-6 5 10 11-14 5 10 6-7 4 9 6-6 5 9 11-15 5 9 6-8 4 9 6-7 4 8 6-7 5 9 5-9 5 9 6-9 4 8 6-8 5 8 5-9 9 17 6-10 5 8 6-9 4 8 6-10 9 15 6-10 4 7 6-10 7 9 2 5 6-10 9 13 6-10 8 11z"/>
<path fill="#009faf" d="M360 505l6 7 9-5 6 7 4-3 6 7 9-6 6 7 4-4 6 7 9-8 6 7 4-4 6 6 5-4 6 6 9-9 5 6 5-5 6 6 4-5 6 6 5-5 5 5 5-5 6 5 4-5 12 9 4-5 6 4 5-5 5 4 5-6 12 9 4-7 6 4 4-6 12 7 5-6 5 3 5-6 12 6 4-7-14-8-3 1-3-3-7-3-21-14-28-23-46-46-23-29-29 40-26 30-13 13-20 15-10 9-3-1zM956 341l-11 5-6 9 5-2 2 1-4 6 2 0 1 2-4 6 5-4 2 1-4 6 2-1 1 2-4 6 5-5 2 1-6 11 3 0-4 5 4-3 0 7-2 1 1 1-4 6-31 35-2 4 5-5 2 1 0-2 9-9 2 0 28-37 8-27-1-4-3-2 2-5-6-7zM32 195l25 60 26 53 18 34 19 31-1 3 7 12 7 8 2 5 4 0-4-6 2-3-5-12 1-2 3 3-2-2 1-2 2 2-7-13 1-1 3 3-2-3 1-2 3 3-3-6 2-1 2 2-3-5 2-1 2 2-3-5 1-1 4 3-3-5 1-2 9 8-4-8 2-1 3 2-3-5 1-2 4 3-4-8 1-1 10 7-4-8 2-1 3 2-4-7 1-2 11 7-5-9 2-1 4 3-4-9 1-2 10 6-4-10-13-7-3 1-38-25-39-35-29-30zM608 30l-17 27-9 18-26 39-3 7-30 40-5 9-40 48-2-1-13 14 3 10 12-12 5 10 5-5 5 10 12-13 4 9 6-6 4 9 12-13 5 10 5-8 5 10 6-8 4 9 12-15 4 8 6-7 5 9 6-8 4 8 6-8 4 8 6-8 5 9 5-9 9 17 6-9 5 8 6-9 4 8 6-10 9 16 6-10 4 8 6-10 7 9 2 5 6-10 4 7 6-10 9 13 5-11-9-13-3-1-32-53-38-76z"/>
<path fill="#00a6ac" d="M369 500l6 7 9-6 6 7 9-6 5 6 5-3 6 7 9-8 6 6 4-4 6 7 4-5 6 7 5-5 6 6 4-4 6 5 4-4 6 5 5-5 6 6 4-5 6 5 4-6 6 6 5-6 5 5 5-6 6 5 4-6 6 5 5-6 11 8 5-6 6 4 4-6 12 7 5-6 11 7 4-7-6-5-14-8-1 2-15-10-28-23-46-46-23-29-29 40-26 30-30 27-5 0-7 7zM1035 264l-15 20-31 33-21 17-1-2-15 11-4 7 5-3 2 1-4 7 5-4 2 1-4 6 3 0-4 6 4-2 1 2-2 2 3 0-6 11 2 0-3 5 1 3-2 1-3 9-29 35 8-7-1-1 8-8 2 0 29-39 4-10 28-40zM32 195l16 40 25 53 28 54 7 10 3 11 15 25 3 2-2-2 1-2 1 1-3-1 1-2-3-4 1-2 2 0-4-7 0-4 1-1 2 2-3-6 1-1 3 3-2-2 1-2 3 3-2-3 1-2 2 2-3-6 1-1 3 3-3-5 1-1 4 3-3-6 1-1 3 3-3-5 1-2 3 2-3-6 2-1 3 3-3-6 1-2 3 2-4-7 2-1 3 2-3-6 2-1 9 7-3-7 2-1 2 2-4-9 2-1 10 7-5-9 1-2 11 7-6-11-17-11-3 1-21-14-28-24-40-41zM608 30l-17 27-9 18-41 63-33 45-13 15-1-2-19 22 3 10 12-12 5 10 11-13 4 10 6-7 5 10 11-14 5 10 6-8 4 9 6-7 5 10 5-8 5 10 6-8 4 8 6-7 5 9 5-9 5 9 6-9 4 8 6-8 4 8 6-8 5 9 6-10 4 8 6-9 4 8 6-9 9 16 6-10 5 6 5-9 9 15 6-10 7 9 2 5 5-11-13-22-4-1-30-54-26-53z"/>
<path fill="#00aea8" d="M382 490l6 8 5-4 6 8 9-8 5 7 5-4 6 7 9-9 6 7 4-4 6 6 4-5 6 6 5-4 6 6 4-5 6 6 4-6 6 6 5-5 5 5 5-5 6 5 4-6 6 5 5-6 5 5 5-6 12 10 4-7 6 5 4-7 12 9 5-7 5 4 5-7-15-10-1 2-43-36-34-35-23-29-29 40-26 30-21 20-5 0zM977 324l-12 10-4 8 3 0-4 6 5-4 1 1-3 6 3 0-3 4 4-4 2 1-4 6 1-1 1 2-5 9 1 2-2 2 0 6-3 2 0 3-16 18-5 9 12-13 28-39 0-4 3-5-1-4-2-1 2-9-4-3 3-5zM32 195l25 60 44 86-1 3 11 19 6 7 1-1-5-9 3-1 0 3 2 0-5-10 2 0 0-3 2 2-3-6 1-1 3 3-2-4 1-1 3 3-2-4 1-1 2 2-3-5 1-2 3 2-3-5 2-1 3 3-3-5 1-2 3 3-3-6 1-2 3 2-3-6 2-1 3 3-3-6 2-2 8 7-4-8 2-1 3 2-4-7 1-1 11 7-5-9 2-1 4 3-5-11-12-8-3 1-9-6-28-24-40-41zM608 30l-17 27-9 18-26 39-3 7-46 63-1-2-14 16 4 10 5-6 6 10 11-14 4 10 6-7 4 10 12-15 5 10 5-8 5 10 6-8 4 9 6-8 5 10 5-9 5 10 6-9 4 8 6-8 5 9 5-9 5 9 6-9 4 8 6-9 4 8 6-9 9 16 6-9 5 7 5-9 9 15 6-10 5 7 5-11-9-15-4-1-21-39-26-53z"/>
<path fill="#00b5a5" d="M391 483l6 8 5-4 6 7 9-8 5 7 5-4 6 6 4-4 6 7 9-10 6 6 4-5 6 7 5-6 5 6 5-5 6 6 4-6 6 6 5-6 5 6 5-6 12 10 4-6 6 5 4-6 6 5 5-7 11 9 5-6 6 4 4-7-14-11-1 2-32-27-34-35-23-29-29 40-26 30-13 13-3-1zM985 317l-10 8-5 10 1-1 1 2-3 4 3-1 0 3 3 0-4 6 1 2-2 3 4-4 1 1-4 8 0 6-2 1-5 10-10 12-3 6 23-30 9-15 1-8 4-11-1-4-3-1 2-3zM32 195l25 60 35 69-1 3 11 21 6 6 1-1-5-9 1-1 3 4 0-4 1-1 2 2-6-12 1-2 1 1-2-3 1-2 3 3-2-3 1-2 3 3-2-5 1-1 2 2-3-7 1-1 3 3-3-6 1-1 4 4-3-6 2-2 8 8-3-6 2-2 3 3-4-7 2-2 3 3-3-7 2-1 8 7-4-9 2-1 4 3-6-11-13-9-1 2-26-22-40-41zM608 30l-17 27-9 18-26 39-3 7-32 44-5 3-12 16 3 10 6-6 5 10 11-15 5 10 6-7 4 9 6-7 4 9 12-16 5 10 5-8 5 10 6-9 4 8 6-8 5 10 5-9 5 9 6-9 4 8 6-9 9 17 6-9 4 8 6-9 5 7 5-9 9 17 6-11 5 8 5-11-9-16-4-1-29-57-18-39z"/>
<path fill="#00bca1" d="M400 476l6 7 5-4 6 7 9-9 5 7 5-5 6 7 4-5 6 7 4-5 6 6 5-5 6 6 4-5 6 6 4-6 6 6 5-5 6 5 4-6 6 6 4-6 6 5 5-6 6 5 4-7 12 10 4-6 6 4 5-7-14-11-4 0-18-16-34-35-23-29-37 50-22 24-3-1zM994 308l-11 11-4 8 1-1 1 2-3 4 5-4 1 1-3 5 2 0-2 3 1 1-2 1 1 1-4 8 1-1 1 2-5 7 1 3-2 1-9 15 10-12 18-27 0-4 5-13-1-4-2-1zM104 266l-1 6-8 0-2 11-3 5-5 16-3 3 3 9 10 19 4 3 1-1 1 4 1-1-7-13 1-1 3 4 0-3 2 2-3-5 1-2 3 3-1-2 2 0-3-5 1-2 4 5-3-7 1-1 3 3-3-5 1-2 3 3-3-5 1-2 4 4-3-7 1-1 4 4-4-7 1-2 4 4-3-6 1-3 3 3-3-7 2-1 9 8-5-9 2-1 3 2-4-8zM608 30l-17 27-9 18-26 39-3 7-23 31-3 0-10 14-1 5 3 8 6-7 4 10 12-15 4 10 6-8 5 10 6-8 4 9 6-7 4 9 6-8 5 10 6-9 4 8 6-8 4 9 6-9 5 10 6-10 4 8 6-9 4 8 6-8 5 8 6-10 8 17 6-10 5 8 5-11-9-17-3-1-4-6-35-73z"/>
<path fill="#00c39e" d="M409 467l6 8 5-5 6 7 8-9 6 7 5-5 6 6 4-5 6 7 4-6 6 7 5-6 6 6 4-5 6 6 4-6 6 6 5-6 6 5 4-6 6 5 4-6 12 10 5-6 5 5 5-7-14-12-2 1-42-42-23-29-37 50-14 15-2-1zM1003 299l-11 11-4 8 1-1 1 2-3 5 3-3 0 3 2 0-2 3 1 1-2 1 0 5-2 1 1 3-2 0 0 5-3 2 1 2-9 11-2 5 29-42 3-8-3-7 2-3zM32 195l25 60 21 42-2 2 10 19 4 3 1-1 1 4 1-1-7-14 1-1 3 4 0-3 2 2-3-7 1-1 3 4-3-5 1-2 3 4-3-5 1-2 4 4-3-6 1-2 4 5-4-7 1-2 4 4-2-3 1-3 2 2-3-6 1-3 4 4-4-8 1-1 10 9-4-7 2-2 3 3-3-8-15-14-1 2-43-43zM608 30l-17 27-9 18-26 39-3 7-10 14-4 1-12 16 0 3 4 8 6-7 4 10 12-16 4 10 6-8 4 9 6-7 5 10 6-9 4 9 6-8 4 9 6-9 5 10 6-10 4 9 6-9 4 8 6-9 5 10 6-11 9 17 5-9 5 9 5-12-9-17-4-2-29-61z"/>
<path fill="#00ca9a" d="M418 458l6 7 5-5 5 8 5-5 6 7 9-11 6 7 4-6 6 7 4-6 6 6 5-6 6 7 4-6 6 6 4-7 12 12 5-7 5 6 5-7 6 6 4-7-14-13-2 1-30-31-23-29-37 50-5 5-2-1zM1012 289l-11 12-4 8 1-1 1 2-3 4 2 0-2 3 2-2 2 2-2 1 0 4-2 1 2 1-2 3-1-1 1 1-2 5-2 1 0 2-6 8 2-1 20-31 5-18zM80 245l-6 24-3 4-1 5-3 2 10 21 6 6 0-3 2 2-2-4 2 0-7-14 1-1 4 5-3-7 1-1 3 4-3-5 1-2 3 3-3-5 1-2 4 4-3-6 1-2 3 3-3-6 1-1 9 8-3-5 2-2 3 3-3-7 2-1 3 3-5-10zM608 30l-38 64-15 23-4 2-12 17 3 11 6-8 5 10 6-8 4 10 12-17 4 10 6-9 4 10 6-9 5 10 6-9 4 9 6-9 4 8 6-8 9 17 6-9 5 8 5-9 5 9 5-11-9-18-4-2-11-23z"/>
<path fill="#00d197" d="M427 448l6 7 5-5 5 7 5-5 6 7 4-6 6 7 5-6 5 7 5-6 6 6 4-6 6 7 5-7 5 6 5-6 6 6 4-7 6 6 4-7-7-8-2 1-25-25-23-29-33 45zM1035 264l-11 15-14 12-3 6 1 2-2 0 1 5-2 0 1 3-2 1 0 5-2 0 1 1-6 13 2-1 17-27 5-14zM70 237l-4 3-1 8-7 14 10 20 5 5 0-3 3 4-2-3 0-2 2 0-2-5 1-1 3 4-3-6 1-1 4 5-2-5 1-1 2 2-3-7 1-1 3 3-3-6 1-1 4 4-3-6 1-3 4 4-4-8 1-1 4 4-8-14-4-4zM608 30l-38 64-10 15-3 0-6 10 3 11 6-8 4 10 6-8 5 10 6-9 4 9 6-8 4 9 6-8 5 9 5-9 5 10 6-10 4 9 6-10 5 9 5-9 5 9 5-11-5-11-4-2-6-12z"/>
<path fill="#00d893" d="M432 443l6 7 9-11 5 7 5-5 6 7 4-6 6 6 5-6 5 7 5-6 6 6 4-6 6 6 4-7 12 12 5-7-14-14-2 1-13-13-23-29-27 37-4 1zM1026 273l-14 18 3-3 1 1-3 7 1 1-2 1 1 2-2 1 1 1-9 17 19-30 5-12zM63 227l-4 15-3 4-2 7 9 19 7 8-8-15 1-2 4 5-2-3 0-2 2 0-2-5 1-1 3 4-3-5 1-2 4 5-3-6 1-3 4 5-4-7 1-2 4 4-4-8 1-1 10 10-4-10zM608 30l-35 59-5 3-12 18 0 3 4 8 12-17 4 9 6-8 4 10 6-9 5 10 6-9 4 9 6-9 4 9 6-9 5 9 5-10 9 19 6-10-10-21-3-1-7-14z"/>
<path fill="#00df8f" d="M441 432l6 7 4-6 6 8 4-6 6 7 5-6 6 6 4-6 6 7 4-7 6 7 5-7 5 6 5-7-14-14-3 0-23-29-18 25-4 1zM1035 261l-14 19 1 1-2 1 0 5-2 0 1 4-2 0 1 1-3 8 21-35zM51 215l-6 18 9 20 7 8-3-6 1-2 3 4-3-5 1-2 3 4-3-6 1-1 4 5-3-6 1-2 3 3-3-6 1-1 4 4-3-6 1-3 3 4-4-10zM608 30l-17 27-6 13-5 3-12 19 0 3 4 8 5-9 5 10 6-9 4 10 6-9 5 10 5-9 5 10 6-10 4 9 6-9 4 8 6-9-10-22-2 0-3-5z"/>
<path fill="#00e68c" d="M450 420l6 8 4-7 6 8 4-7 6 7 5-6 5 7 5-7 6 6 4-6-7-9-3 0-18-22-9 11-2 5-4 4-2 0zM1038 257l-5 6-5 10 1 2-2 0 1 3-2 2 2-1 11-18zM45 208l-4 15 4 10 7 8-3-7 1-1 3 4-3-5 1-2 4 5-3-6 1-2 2 2-2-6 1-1 4 5-5-10zM608 30l-18 30-4 2-6 11 3 11 6-9 5 10 5-9 5 10 6-10 4 10 6-10 5 9 5-9-5-12-2 0-4-6z"/>
<path fill="#00ed88" d="M454 414l6 7 4-6 6 7 5-6 6 7 4-7 6 7 4-7-8-11-5-5-2 1-7-9-6 7-2 0-3 3-2 5zM1046 248l-2 0-7 9-6 14 3-1zM34 194l-2 4 1 7 8 18 6 7-3-5 1-2 4 5-3-8 1-1 4 5-4-8 1-1 4 5-6-12zM608 30l-6 10-5 3-12 21 4 10 6-9 4 10 6-9 5 10 6-10 4 9 6-9-5-9-4-12-5-4z"/>
<path fill="#00f485" d="M469 393l-6 8 6 8 4-7 6 7 5-7-8-9zM28 187l-1 2 5 13 7 8-4-7 1-2 4 5-3-8zM608 30l-5 3-6 10 0 3 4 8 6-10 4 10 6-9-6-13-2 0z"/>
<path fill="#00fb81" d="M472 388l-4 7 5 7 5-7zM608 24l-5 9 0 3 4 7 5-9z"/>
</g>
<g clip-path="url(#f1c)"><use href="#f1s" filter="url(#sb)"/></g>
</g>
<g font-size="8.2" fill="#222">
<text x="165" y="7" text-anchor="middle">Function Topology</text>
<text x="30" y="165.8" text-anchor="end">0</text>
<text x="30" y="137.8" text-anchor="end">0.5</text>
<text x="30" y="109.7" text-anchor="end">1</text>
<text x="30" y="81.6" text-anchor="end">1.5</text>
<text x="30" y="53.5" text-anchor="end">2</text>
<text x="141.5" y="226.3" text-anchor="end">-100</text>
<text x="113.5" y="213.4" text-anchor="end">-50</text>
<text x="85.5" y="200.6" text-anchor="end">0</text>
<text x="57.5" y="187.7" text-anchor="end">50</text>
<text x="29.5" y="174.8" text-anchor="end">100</text>
<text x="152.5" y="227.1">-100</text>
<text x="189" y="217.2">-50</text>
<text x="225.5" y="207.4">0</text>
<text x="262" y="197.5">50</text>
<text x="298.5" y="187.6">100</text>
<text x="85.5" y="230" text-anchor="middle">x<tspan font-size="6.4" dy="2.5">2</tspan></text>
<text x="216.5" y="233" text-anchor="middle">x<tspan font-size="6.4" dy="2.5">1</tspan></text>
<text transform="translate(10,108.7) rotate(-90)" text-anchor="middle" xml:space="preserve">F1( x<tspan font-size="6.4" dy="2.5">1</tspan><tspan dy="-2.5"> , x</tspan><tspan font-size="6.4" dy="2.5">2</tspan><tspan dy="-2.5"> )</tspan></text>
<text x="36" y="36.5">x 10<tspan font-size="6.4" dy="-6.1">4</tspan></text>
</g>
<g font-family="Liberation Serif, Times New Roman, serif" fill="#000" stroke="#000" stroke-width=".5">
<text transform="translate(108.3 297.8) scale(.875 1)" font-size="46" font-style="italic">F</text>
<text transform="translate(131 307.5) scale(1.15 1)" font-size="31.3">1</text>
</g>
</g>
<g id="f2">
<path d="M506 211L396.2 159.5M396.2 159.5L396.2 47M541.8 201.1L432 149.6M432 149.6L432 37.1M577.6 191.2L467.8 139.7M467.8 139.7L467.8 27.3M613.4 181.4L503.6 129.8M503.6 129.8L503.6 17.4M649.2 171.5L539.4 120M539.4 120L539.4 7.5M506 211L649.2 171.5M649.2 171.5L649.2 59M451.1 185.2L594.3 145.7M594.3 145.7L594.3 33.3M396.2 159.5L539.4 120M539.4 120L539.4 7.5M396.2 159.5L539.4 120M539.4 120L649.2 171.5M396.2 140.7L539.4 101.2M539.4 101.2L649.2 152.7M396.2 122L539.4 82.5M539.4 82.5L649.2 134M396.2 103.3L539.4 63.7M539.4 63.7L649.2 115.2M396.2 84.5L539.4 45M539.4 45L649.2 96.5M396.2 65.8L539.4 26.2M539.4 26.2L649.2 77.8M396.2 47L539.4 7.5M539.4 7.5L649.2 59" fill="none" stroke="#e6e6e6" stroke-width="0.7"/>
<g transform="scale(.1)" fill="none" stroke-width="5" opacity="0.5">
<path stroke="#0032e6" d="M5642 1950l-130-38-129-30-113-18-119-10-116-1-122 7-146 16-152 25M6046 1506l-105 46-83 47-50 40-27 41-5 20 1 24 19 44 47 52 68 55M4408 1804l105-47 83-46 50-41 19-23 9-20 4-17-1-24-19-44-47-53-68-55M4812 1360l130 38 129 30 113 18 119 10 116 1 122-7 146-17 152-24"/>
<path stroke="#0064cd" d="M5500 1989l-180-33-193-18-186-1-218 15M6155 1557l-57 37-40 35-28 33-16 31-6 33 5 39 16 37 24 34M4299 1753l57-37 40-35 28-34 16-31 6-32-5-40-16-36-24-34M4954 1321l200 35 180 16 200 0 197-14"/>
<path stroke="#0096b4" d="M5358 2028l-123-15-129-10-144-3-130 3M6264 1608l-42 44-27 47-7 26-2 25 8 47M4190 1702l42-44 28-51 8-48-8-46M5096 1282l123 15 129 9 144 4 130-3"/>
<path stroke="#00c89b" d="M5216 2067l-131-9-144-4M6372 1659l-27 51-9 48M4082 1651l27-51 9-48M5238 1243l131 9 144 4"/>
<path stroke="#00fa82" d="M5075 2106l-25-1M6481 1710l-3 9M3973 1600l3-9M5379 1204l25 1"/>
</g>
<path d="M396.2 159.5L506 211L649.2 171.5" fill="none" stroke="#a8a8a8" stroke-width="0.9"/>
<path d="M396.2 159.5L396.2 47" fill="none" stroke="#a8a8a8" stroke-width="0.9"/>
<path d="M506 211l-2.9 0.8M451.1 185.2l-2.9 0.8M396.2 159.5l-2.9 0.8M506 211l2.7 1.3M541.8 201.1l2.7 1.3M577.6 191.2l2.7 1.3M613.4 181.4l2.7 1.3M649.2 171.5l2.7 1.3M396.2 159.5l-2.9 0.8M396.2 140.7l-2.9 0.8M396.2 122l-2.9 0.8M396.2 103.3l-2.9 0.8M396.2 84.5l-2.9 0.8M396.2 65.8l-2.9 0.8M396.2 47l-2.9 0.8" fill="none" stroke="#a8a8a8" stroke-width="0.9"/>
<clipPath id="f2c"><path clip-rule="evenodd" d="M1037 300l-69 86-47 54-43 44-44 39-13 9-16 14-10-18-15-36-18-36-4-12-16-32-41-93-16-32-6-16-16-32-4-12-42-89-4-12-16-32-280 448-36-28-36-33-220-229 17 39 16 32 6 16 16 32 6 16 16 32 17 41 18 36 4 12 42 89 4 12 58 124 184-48 21-4 29-3 39 0 23 2 30 5 45 13 26 10 20 10 15 5 73 34 2-1 26-44 35-53 5-11 31-47 9-17 31-47 9-17 20-29 20-35 20-29 9-17 29-44 5-11z"/></clipPath>
<g transform="translate(390,1) scale(0.25)" fill-rule="evenodd">
<g id="f2s">
<path fill="#0004fd" d="M627 701l3 3 47 19 73 34 2-1 6-11-2-2-23-9-3 1-1 6-4-1-7-4-15-5-30-15-19-6-18-8-2 1-4-3zM453 681l-4-3-14 4-2-1-4 2-2-1-27 5-24 7-44 8-12 6-49 11-8 3-5 0-2-4-3-1-14 3 0 2 5 10 3 1 111-30 8-1 3-2 20-4 3-2 20-4 3-2zM741 586l-4-8-4-1-66 23-3-4-4-1-29 10-7 4-9-4-5 2-2 5 22 24 4 1 6-2 2-3 5-1 8-5 19-6 9-5 14-4 14-7 5-1 23-12zM314 541l2 5 44 30 9 4 3-1 4-5 1-4-2-3-16-7-5-4-33-17-2 0-2 3z"/>
<path fill="#000bfa" d="M1017 328l-73 90-41 44-23 23-44 39-13 9-16 14-4 0-10-18-15-36-18-36-4-12-38-80-19-45-16-32-6-16-16-32-4-12-9-17-2-7-9-17-2-7-9-17-2-7-27-58-19 32-14 20-9 17-20 29-20 35-20 29-9 17-31 47-9 17-31 47-9 17-31 47-9 17-20 29-9 17-9 14-4 2-7 11-3-2-1 2-34-27-36-33-211-219 50 107 6 16 16 32 17 41 18 36 4 12 42 89 4 12 16 32 6 16 16 32 9 21-2 2 6 12 10-3 4 1-5 7 74-18 9-5 44-8 34-9 28-4 11-3 33-3 0-2 36 0 53 7 1 3 11 3 2-2 6 1 1 3 47 15 12 6 6 1 7 4 16 5 20 11 15 5 29 13-11-12 1-1 23 9 7-11-1-3 13-22 35-53 5-11 31-47 9-17 31-47 9-17 20-29 20-35 20-29 9-17 29-44 5-11zM738 587l-3 2-2 4-20 10-12 2-7 4-14 4-9 5-19 6-2 2-1-1-5 4-8 2 2 1-4 2-3-2-2 1-17-18 1-2-2-2 5-3 6 5 12-6 26-9 6 6 67-24 2 1zM323 546l2-1 49 26-5 6-3-2-3 1-27-17-6-5 2-1z"/>
<path fill="#0012f6" d="M1017 328l-73 90-41 44-46 44-48 39-2-1-2 2-6-11-3-1-3-5-15-36-18-36-4-12-38-80-19-45-16-32-6-16-16-32-4-12-9-17-2-7-9-17-2-7-9-17-2-7-27-58-19 32-14 20-9 17-20 29-20 35-20 29-9 17-31 47-9 17-31 47-9 17-31 47-9 17-20 29-6 12-5 3-11 18 7 6 4-7 3-2 47 28-2 3 2 2-13 15-1-2-3 3-23-15-3 1-45-33-37-32-40-39-188-196 50 107 6 16 16 32 17 41 18 36 4 12 42 89 4 12 16 32 6 16 16 32-1 5 9 20 12-2-4-8 1-2 25-5 4 1-2 3 2 1-3 4-6 3-5 8-6 6 12-2 4-5 15-4 51-8 11-5 28-4 22-6 11 0 12-4 21-1 6-2 31-3 41 0 23 2 30 5 16 5 13 2 19 7 8 1 12 6 24 6 9 6 53 18 5 6 8 3-15-17-4-1-14-14 2-2-4-4-1 2-9-9 2-1-4-4 2-1 17 5 2 2-5 6 3 2 48 16 1 2-5 8 9 3 12-20-2-2 38-58 5-11 31-47 9-17 31-47 9-17 20-29 20-35 20-29 9-17 29-44 5-11zM795 552l-4 3 3 0-3 3-43 27-23 12-3-1-56 26 0 2-7 3 2 0 0 2-9 4 3 1-4 2 3 1-4 2 2 1-4 3 3 1-4 3-2 0-2-3-1 2-48-50 1-2-2-2 6-4 5 5 11-5 5 5 21-10 6 6 27-12 6 6 15-7 14-4 9-5 7 8 18-8 45-15 5-3z"/>
<path fill="#0019f3" d="M1017 328l-73 90-41 44-46 44-50 41-29 20-45 26-3-1-14 8-9 3 0 2-2-1 0 2-13 6 0 2-7 3 1 1-2 1 2 0 0 2-9 4 3 1-5 3 2 1-3 2 3 1-5 3 4 1-5 3 8 1-5 4 3 1-4 4 5 0 2 2-4 3 12 3-5 5 10 1 2 2-4 5 12 3-5 6 23 5 2 2-4 6 10 4 12 2 7 4-4 7 30 10 7-12-1-3 10-14 3-7 18-26 5-11 31-47 9-17 31-47 9-17 20-29 20-35 20-29 9-17 29-44 5-11zM597 98l-19 32-14 20-9 17-20 29-20 35-20 29-9 17-31 47-9 17-31 47-9 17-31 47-9 17-21 32-4 2-6 10 1 2 29 18 3-5 4-3 25 17-2 2 2 2-24 30-3 0-2 3-44-32-4 0-10-7-50-42-40-39-188-196 50 107 6 16 16 32 17 41 18 36 4 12 42 89 4 12 16 32 6 16 12 24-2 2 6 12 39-7-3-6 1-2 24-3 1 1-2 3 2 1-17 21-4 1-6 8 15-3 22-2 8-6 37-4 11-5 27-2 7-3 15-1 7-3 15 0 11-3 32-2 50 0 11 2 12 0 4 2 8 0 6 2 7 0 8 3 7 0 11 4 8 0 8 4 11 2 11 5 24 5 8 5 25 6 9 7 31 9-23-20-126-132-4-8 6-4 5 5 5-3 5 5 11-7 5 6 17-9 5 5 16-8 5 6 17-8 5 6 34-15 5 8 38-17 6 8 39-15-5-12-3-1-9-18-4-12-18-36-4-12-38-80-19-45-16-32-6-16-16-32-4-12-9-17-2-7-9-17-2-7-9-17-2-7z"/>
<path fill="#0020ef" d="M1017 328l-73 90-41 44-46 44-50 41-29 20-7 3-13 9-3-1-40 23-2 3-1-1-2 4-7 4 2 1-2 1 3 1-11 6 3 1-4 3 2 1-4 3 8 0-5 4 4 0-5 4 8 1-5 4 4 1-5 4 12 2-5 5 8 2-5 5 6 0 7 3-5 5 6 2 8 0 2 2-4 6 21 6-5 6 29 8 1 1-5 8 13 3 13-20-2-2 20-30 5-11 31-47 9-17 31-47 9-17 20-29 20-35 20-29 9-17 29-44 5-11zM597 98l-19 32-14 20-9 17-20 29-20 35-20 29-9 17-31 47-9 17-31 47-9 17-31 47-9 17-10 15-4 1-11 18 0 2 12 8 6-9 30 22 6-8 7 4 6 6-2 2 2 2-9 10-32 41-2-1-3 2-6-6 1-1-4-4 1-1-8-6 1-1-1 1-11-11-2 0-28-22-2 1-6-4-54-48-211-219 50 107 6 16 16 32 4 12 9 17 4 12 18 36 4 12 42 89 4 12 16 32 9 21-2 2 10 21 17-2-4-8 1-1 36-4 2-1-3-6 1-2 27-2-4-6 1-1 13-1 1 1-2 3 2 1-21 25-8 11-4 1-11 14 18-3 4-5 37-3 8-5 28-2 8-4 16 0 7-3 19-1 3-2 13 0 3-2 19 0 12-2 35 0 58 4 18 5 11 0 5 3 6 0 11 4 11 1 8 4 40 10 12 7 25 5 8 7 13 3-15-16-4-1-124-130-17-16 2-2-2-3 12-8 4 5 6-4 4 5 12-7 4 5 6-3 5 5 16-9 5 6 11-7 5 7 17-9 5 6 22-11 5 7 27-13 3 2 3 6 40-18 5 9 16-7-10-21-3-1-4-11-18-36-4-12-38-80-19-45-16-32-6-16-16-32-4-12-9-17-2-7-9-17-2-7-9-17-2-7z"/>
<path fill="#0027ec" d="M1017 328l-73 90-64 67-44 39-13 9-16 14-29 20-9 5-3-1-31 20-2 3-1-1-5 6-1-1 1 1-3 2 1 1-8 6 1 1-3 2 2 1-3 2 3 1-4 3 3 1-5 3 7 1-4 3 4 1-5 4 8 1-5 4 8 1-5 5 8 1-5 5 11 1 1 1-4 6 12 2-5 6 16 3 1 1-5 6 20 4 1 1-5 8 6 0 21 5 6-11-1-3 14-20 5-11 31-47 9-17 31-47 9-17 20-29 20-35 20-29 9-17 29-44 5-11zM597 98l-19 32-14 20-9 17-20 29-20 35-20 29-9 17-31 47-9 17-31 47-9 17-31 47-9 17-5 7-3 0-6 9 0 2 26 18 5-8 22 17 6-8 9 7-2 2 2 2-69 86-1-1 2-4-6 8-4-5 4 0-3-4 5 0-3-3 4 0-3-4 4 0-6-7 3 0-2-2 1-1 3 1-7-7 4 0-6-5 1-1-4-4 1-1-7-8-31-26-3 1-2-2 2-1-8-7-2 1-8-6-36-33-211-219 50 107 6 16 16 32 4 12 9 17 4 12 18 36 4 12 42 89 4 12 20 42-1 4 5 11 32-2 3-1-4-7 1-2 26-1-3-6 1-2 21-1-4-6 1-1 16 0-4-6 1-1 15 0-3-5 10-1-3-5 1-1 10 1-4-5 1-1 10 1-4-4 5 0-3-5 2-1 8 2 0 6-3 3-1-2-3 4 2 2-7 7-48 61-3 0-7 9 35-3 4-5 29-1 4-4 23-1 4-3 18 0 4-3 17 1 4-3 13 1 3-2 13 1 3-2 14 1 11-2 11 2 19-1 11 2 7-1 4 2 21 0 4 2 22 2 7 3 10 0 8 4 10 0 6 4 13 1 6 4 18 2 5 5 7 0 13 3 11 7 12 1 11 3-8-9-3 0-120-126-35-35 1-2-4-4 1-2 3 3 5-5 5 5 6-4 4 5 6-4 4 5 12-8 4 5 6-4 4 6 11-8 5 6 11-7 5 6 11-7 5 7 17-10 4 7 17-10 5 8 23-12 5 8 28-15 5 9 33-16-5-12-3-1-18-37-4-12-38-80-19-45-16-32-6-16-16-32-4-12-9-17-2-7-9-17-2-7-9-17-2-7z"/>
<path fill="#002ee8" d="M1017 328l-73 90-64 67-44 39-13 9-16 14-19 13-3-1-9 7-10 5-21 16 2 1-9 6 2 1-3 2 2 1-3 2 2 1-4 3 2 1-3 2 2 1-3 3 3 1-5 4 8 0-5 4 4 1-5 4 8 1-5 5 8 0-5 6 8 1-5 5 10 0 2 2-4 6 9 0 3 2-5 6 16 2 1 1-5 7 20 3 1 1-5 8 13 2 6-9 0-3 13-24 31-47 9-17 31-47 9-17 20-29 20-35 20-29 9-17 29-44 5-11zM32 263l50 107 6 16 16 32 4 12 31 65 4 12 9 17 24 55 9 17 4 12 16 33-1 4 4 9 18 0-4-8 1-1 27-1-4-7 1-1 21 0-3-6 1-2 15 0-3-6 1-1 15 1-4-6 1-1 10 1-3-6 10 0-3-5 1-1 9 2-3-5 4-1-3-4 3-1 7 2-3-5 5 0-4-4 5 0-3-4 4 0-2-3 4 0-3-3 4 0-2-3 3 0-5-6 0-4 3 0-6-6 4 0-7-6 1-1-4-4 1-1-13-14-26-21-2 1-34-31zM597 98l-19 32-14 20-9 17-20 29-20 35-20 29-9 17-31 47-9 17-31 47-26 44-17 26-14 18 0 2 12 9 6-9 22 18 6-8 17 14 6-7 4 4 0 4-55 68-5 8-16 18-59 76-11 9-5 7 14 0 3-1 4-5 26 0 7-5 23 0 5-4 17 1 4-3 18 0 3-2 13 0 3-2 13 1 3-2 14 1 15-2 10 2 3-2 21 0 4 2 8-1 19 2 4 2 10-2 5 3 5-1 5 3 10-1 5 3 9 0 5 3 10 0 5 3 11 0 11 5 10 0 9 5 14 1 9 6 19 2 6 6 13 2-40-38-86-91-53-54 1-2-9-9 1-2 8 8 6-5 4 5 6-5 4 5 6-5 4 5 6-5 5 6 5-5 5 6 5-5 5 6 11-8 5 5 5-4 5 6 11-7 5 6 11-8 4 7 12-7 4 7 18-11 4 8 17-10 5 8 22-13 5 9 28-16 5 10 17-9-5-11-4-2-13-27-4-12-38-80-19-45-16-32-6-16-16-32-4-12-9-17-2-7-9-17-2-7-9-17-2-7z"/>
<path fill="#0035e4" d="M1017 328l-73 90-64 67-44 39-13 9-16 14-9 6-3-1-24 17-2 3-1-1 1 1-7 6-1-1 0 3-10 10 3 0-4 3 2 1-5 7 4 0-5 4 6-2 2 1-5 5 4 0-5 5 7-2 1 1-5 5 8 1-5 5 8 0-5 6 8 1-5 6 11 0 1 1-4 6 12 2-5 7 16 1 1 1-5 7 15 2 1 1-4 8 4 1 10-15 3-12 31-47 9-17 31-47 9-17 20-29 20-35 20-29 9-17 29-44 5-11zM32 263l50 107 6 16 16 32 4 12 31 65 4 12 9 17 24 55 9 17 4 12 7 13 0 7 8 17 6 0-4-8 1-1 22 0-4-7 1-2 21 1-4-8 1-1 16 1-4-7 1-1 15 2-3-7 10 0-3-6 1-1 9 2-3-6 3-1 7 2-3-6 1-1 10 2-4-5 5 0-3-4 1-1 9 2-2-3 1-2 2 1-2-4 4 0-4-4 5 0-2-3 3 0-2-3 4 0-7-8 4 0-3-2 1-1 3 1-7-7 3 0-5-5 1-2 1 1-6-6 0-4-41-38-2 1-38-37zM597 98l-19 32-14 20-9 17-20 29-20 35-20 29-9 17-31 47-9 17-31 47-26 44-10 15-4 1-11 19 0 2 3 2 6-9 17 15 6-9 18 16 5-8 14 12 5-8 5 4-2 2 2 2-67 83-5 8-16 18-50 65-8 8-3 1-10 13 6-1 4-5 23 0 4-5 23 1 5-4 17 1 4-4 18 1 4-3 11 1 5-3 11 2 5-3 11 2 4-3 10 3 6-3 5 2 5-2 10 2 17-1 4 2 7-2 3 2 7-1 3 2 7-1 3 2 11-2 5 3 20 0 5 3 9-1 5 3 10 0 5 3 8 0 6 4 13 0 6 4 11 0 11 6 12 0 8 6 18 2 6 6 4 0-14-15-3 0-103-108-72-74 3 0-10-11 1-2 9 9 5-5 5 4 5-5 9 10 6-5 4 5 6-5 4 5 6-5 5 5 5-4 5 5 5-4 5 5 11-9 5 6 5-4 5 6 11-8 5 6 11-8 4 7 12-8 4 7 12-7 4 7 17-11 5 8 17-10 5 8 22-13 5 9 22-13 5 9 5-2-9-21-4-2-4-8-4-12-38-80-19-45-16-32-6-16-16-32-4-12-9-17-2-7-9-17-2-7-9-17-2-7z"/>
<path fill="#003ce1" d="M1017 328l-73 90-41 44-46 44-50 41-3-1-17 12-2 3-1-1-6 7-1-1 0 3-3 2 3 0-10 8 3 0-4 3 1 1-2 2 2 1-4 3 4 0-5 4 6-2 2 1-5 4 2 1-3 4 2 1-4 4 6 0 1 1-4 4 7 1-4 5 8 0-4 5 6 2-3 6 11-1 1 1-5 7 12 1-5 7 10 0 7 2-5 8 14 0 9-16 0-4 6-8 3-7 54-84 9-17 20-29 20-35 20-29 9-17 29-44 5-11zM32 263l50 107 6 16 16 32 4 12 31 65 4 12 9 17 24 55 9 17 7 17-2 2 5 10 18 2-4-7 1-2 21 1-4-8 1-1 16 1-4-7 1-1 15 2-3-7 3-1 8 2-4-6 11 0-4-6 1-1 10 2-4-5 1-1 10 2-3-4 1-2 3 1-2-5 3 0-3-5 3-1 7 3-2-4 4 0-3-4 4 0-2-3 3 0-2-4 4 0-7-8 4 0-3-3 3 0 1-3-4-4 1-2-6-6 3 0-4-4 1-1-4-4 1-1-33-32-1 2-32-31zM597 98l-19 32-14 20-9 17-20 29-20 35-20 29-9 17-31 47-9 17-31 47-26 44-8 7-6 9 0 2 12 11 6-9 18 16 5-8 14 12 5-8 13 13 0 5-49 60-28 37-16 18-48 62-3 1-11 13 17 0 4-5 23 1 5-4 17 1 4-4 15 2 7-4 11 2 5-4 9 2 7-3 9 2 6-2 13 2 3-2 7 1 3-2 7 1 4-2 10 4 5-2 5 2 5-2 7 2 4-2 5 3 4-2 5 2 11-2 5 3 5-1 14 4 11-1 5 3 9-1 5 3 10 0 5 3 9 0 5 4 13-1 6 5 13 0 6 5 18 1 8 6 11 0-14-14-4-1-171-178-8-9 1-2-11-11 2-2 9 10 6-7 8 10 6-6 5 5 5-6 5 5 5-6 9 11 6-5 4 5 6-5 4 5 6-5 5 6 5-5 5 6 11-10 5 7 5-5 5 6 5-4 5 6 11-8 5 6 11-8 4 7 12-8 4 7 12-8 4 8 17-11 5 8 17-11 4 8 2 0 21-13 5 9 16-9-5-12-3-1-4-11-16-32-6-16-16-32-19-45-16-32-6-16-16-32-4-12-9-17-2-7-9-17-2-7-9-17-2-7z"/>
<path fill="#0043dd" d="M1017 328l-73 90-41 44-46 44-40 33-3-1-30 26 3 0-4 3 0 4-3 2 3 0-4 4 0 5-3 3 4 0-5 5 3-2 4 1-4 4 4 0-5 6 7-2 1 1-5 6 6-2 2 1-5 6 7-1 1 1-5 6 8 0-5 7 11-1 1 1-4 7 12 1-5 7 17 1-5 8 4 0 13-20-2-2 56-88 9-17 20-29 20-35 20-29 9-17 29-44 5-11zM32 263l151 329-1 4 9 21 6 0-4-8 1-2 22 2-4-7 1-2 15 2-4-7 1-1 16 2-4-7 1-1 10 2-4-7 1-1 10 2-4-6 1-1 10 2-4-6 3-1 8 3-4-6 5 0-3-5 3-1 7 3-2-4 4 0-3-4 1-2 3 1-3-4 4 0-2-3 4 0-3-4 4 0-3-3 4 0-2-3 3 0-5-6 0-4 3 0-5-5 1-2 1 1-5-5 1-2 1 1-16-21-19-18-2 1zM597 98l-19 32-14 20-9 17-20 29-20 35-20 29-9 17-31 47-9 17-31 47-9 17-10 15-4 1-11 18 0 2 3 3 6-9 18 17 5-9 13 13 6-8 13 13 6-7 9 9-2 2 1 3-83 103-5 8-16 18-41 53-4 4-2-1-5 8-6 6 6 0 4-5 23 2 5-5 17 2 4-4 9 0 8 2 5-4 11 2 5-4 11 2 5-3 11 2 5-3 11 3 4-3 6 2 5-3 11 4 4-3 5 2 5-2 7 2 4-2 4 2 7-1 3 2 6-2 5 3 5-2 5 3 6-2 5 3 9-2 5 3 5-1 5 3 9-2 6 4 9-2 5 4 9-1 6 4 9-1 5 4 13-1 6 5 13 0 6 5 18 0 5 6 5 0-40-38-63-67-17-16-89-94 1-2-10-10 2-3 8 10 6-7 9 10 6-7 8 10 6-6 5 5 5-6 9 10 6-6 4 6 6-6 4 6 6-6 4 6 6-6 5 6 5-5 5 6 5-5 5 6 5-5 5 7 11-10 5 7 5-5 5 7 11-9 5 7 11-9 5 7 11-8 4 8 12-8 4 8 17-12 6 8 16-11 4 8 11-5 12-8 5 9 5-3-9-21-4-2-11-23-6-16-16-32-19-45-16-32-6-16-16-32-4-12-9-17-2-7-9-17-2-7-9-17-2-7z"/>
<path fill="#004ada" d="M306 656l17 2 5-5 17 2 4-5 17 3 5-4 11 2 5-4 11 3 4-4 3 0 9 3 4-4 10 3 6-3 6 2 4-3 11 4 5-3 5 2 5-2 5 2 5-2 5 2 5-2 7 2 4-2 5 3 5-2 5 3 6-2 5 3 5-1 5 3 9-3 5 3 5-1 5 4 8-2 7 3 9-1 5 4 9-2 6 5 9-2 5 5 14-1 5 5 13-1 6 6 13-1-7-8-3 0-196-204-88 110-5 8-16 18-27 36-13 15-3 0zM1017 328l-73 90-41 44-46 44-20 17-4 0-23 19-1 3-1-1 1 1-7 7-1-1 1 1-6 9 3 0-4 3 0 5-3 3 3 0-4 4 2 1-3 4 5-2 1 2-3 3 2 2-4 4 6-1 1 1-4 5 8 0-5 6 6-1 1 2-3 5 7 0-4 6 12 0-5 8 12 0-4 7 13 0 6-11-2-1 11-16 9-17 31-47 9-17 20-29 20-35 20-29 9-17 29-44 5-11zM32 263l50 107 6 16 16 32 4 12 31 65 4 12 9 17 13 31 9 17 5 12-2 2 5 10 10 3 8 0-4-8 3-1 14 2-4-7 1-2 15 3-4-7 3-1 8 2-4-7 1-1 10 2-4-6 3-1 8 2-3-6 1-1 9 3-2-4 1-2 2 1-3-6 1-1 9 3-3-5 5 0-3-4 4 0-2-3 1-2 2 1-2-4 4 0-3-4 4 0-2-3 3 0-2-3 3 0-2-3 1-1 2 1-6-8 3 0 1-2-5-6 2-1-4-4 1-2-15-19-11-11-1 2zM597 98l-19 32-14 20-9 17-20 29-20 35-20 29-9 17-31 47-9 17-31 47-9 17-5 7-3 0-6 9 0 2 12 12 6-9 13 13 6-8 8 7 5 7 6-8 9 9 6-7 8 9 6-7 9 10 6-7 8 10 6-6 4 5 6-6 9 10 6-6 4 6 6-6 4 6 6-6 4 6 6-6 4 6 6-6 5 7 5-6 5 7 5-6 5 7 6-5 4 6 11-10 5 7 6-4 4 7 11-10 5 8 11-9 5 7 11-8 4 8 12-9 5 8 16-12 5 9 17-12 4 9 2 0 15-10-5-12-3-1-7-14-6-16-16-32-19-45-16-32-6-16-16-32-4-12-9-17-2-7-9-17-2-7-9-17-2-7z"/>
<path fill="#0051d6" d="M310 651l12 1 4-5 17 3 5-5 11 2 5-5 4 2 13 2 4-4 12 3 4-4 6 1 4-3 10 3 6-3 13 3 3-2 7 1 3-2 6 2 5-3 11 5 4-3 6 3 4-3 6 3 5-2 5 3 4-2 8 2 8-3 5 3 4-2 6 4 4-2 6 4 7-3 7 4 9-2 6 4 4-1 6 4 9-2 6 5 13-3 5 5 9-1 6 5 13-1 6 6 9-1-13-13-4-1-184-192-88 110-5 8-16 18-27 36-9 10-2-1zM1017 328l-47 59-47 54-43 44-41 36-1-2-19 18-1-1 1 2-2 0 1 1-9 9 0 2-3 3 3 0-7 11 6 0-3 3 4 0-5 5 4 0-5 5 7-2 1 1-5 5 6-2 2 1-5 6 2 2-3 5 6 0-3 6 10-3 2 1-5 8 7 0-4 7 12 0-4 7 8 0 6-9 3-9 10-18 31-47 9-17 20-29 20-35 20-29 9-17 29-44 5-11zM32 263l50 107 6 16 16 32 4 12 31 65 4 12 9 17 13 31 8 15 0 7 5 11 12 1-4-7 1-2 15 3-4-8 3-1 9 2-4-7 1-2 15 4-4-7 3-1 8 2-4-6 5 0-3-7 1-1 9 4-3-7 1-1 9 4-2-5 4 0-3-4 1-2 3 1-3-5 3-1 7 3-2-3 1-2 2 1-2-4 4 0-3-4 4 0-2-3 3 0-7-9 3 0-1-2 3 0-1-2 2 0-5-6 1-2 1 1-5-6 3-3-12-14-2-5-17-18-2 1zM597 98l-19 32-14 20-9 17-20 29-20 35-20 29-9 17-31 47-26 44-20 31-5 4-6 9 0 2 8 8 6-9 13 13 5-8 9 9 6-8 13 15 6-8 9 10 5-7 5 5 6-7 8 10 6-7 9 11 6-6 4 5 6-6 4 5 6-6 9 12 5-6 5 6 5-6 5 6 6-5 4 6 6-6 4 7 11-11 5 7 6-5 4 6 6-5 4 7 12-9 4 7 11-10 5 8 6-5 4 8 11-9 5 8 17-13 4 8 2 0 10-8 4 8 2 0 15-11 5 9 11-7-5-11-3-1-3-5-6-16-16-32-19-45-16-32-6-16-16-32-4-12-9-17-2-7-9-17-2-7-9-17-2-7z"/>
<path fill="#0059d3" d="M315 645l6 1 4-5 11 2 5-5 17 3 4-4 12 2 4-4 12 3 4-4 10 3 9-3 8 3 5-3 5 2 6-4 10 5 5-3 5 2 5-3 5 2 5-2 5 2 5-2 7 2 4-2 5 3 5-2 5 3 4-2 6 3 5-2 5 3 5-2 5 4 10-3 5 3 4-1 6 4 7-3 8 4 8-2 6 5 9-2 6 4 8-1 6 5 13-2 6 5 9-1 6 6 4-1-34-32-161-168-88 110-5 8-16 18-15 21-12 14-2-1zM1017 328l-47 59-47 54-43 44-21 19-2-1-21 18-1 3-1-1 1 1-7 7-1-1 1 1-4 5 1 1-3 2 3 0-7 11 3 0-4 5 0 5-3 4 3-2 4 1-4 5 3 0-4 5 7-2 1 1-5 6 6-2 2 1-5 6 6-1 1 1-4 6 7 0-4 7 7-2 5 1-4 6 6 2-3 7 4 0 13-21-2-1 2-5 31-47 9-17 20-29 20-35 20-29 9-17 29-44 5-11zM32 263l50 107 6 16 16 32 4 12 31 65 15 36 11 22-1 5 9 19 7 2-4-8 2-1 9 2-4-8 1-2 3 2 12 2-3-6 1-2 9 2-4-7 1-1 11 3-4-7 1-2 9 4-3-6 1-2 9 3-2-4 1-2 2 1-3-6 1-2 9 5-2-5 4 0-3-5 4 0-2-4 1-2 2 1-2-3 1-2 2 1-2-3 4 0-2-3 1-2 2 1-2-3 3 0-2-3 4 0-2-2 1-1 2 1-6-8 2-1 0-2 2 1-5-5 1-2 1 1-5-6-3-6 1-1-12-14-1-3-14-14-1 2zM597 98l-19 32-14 20-9 17-20 29-20 35-20 29-9 17-31 47-26 44-10 15-3 0-12 20 0 2 3 3 6-9 9 10 5-9 14 14 5-8 9 10 6-8 9 10 5-7 9 10 6-7 9 11 5-7 5 5 5-6 9 11 6-7 4 6 6-6 5 6 5-6 5 6 5-6 5 6 5-6 5 6 6-5 4 6 6-6 4 7 6-5 4 7 6-6 4 7 12-10 4 7 6-5 4 8 12-10 4 8 12-10 4 8 11-9 5 8 11-9 5 9 17-13 4 8 2 0 10-7 4 8 5-2-8-20-4-3-16-33-19-45-16-32-6-16-16-32-4-12-9-17-2-7-9-17-2-7-9-17-2-7z"/>
<path fill="#0060cf" d="M324 634l11 2 5-5 4 2 13 2 4-5 11 3 5-4 11 3 5-4 11 4 5-4 5 2 5-4 10 4 6-3 5 2 5-3 5 2 5-3 10 5 6-3 5 3 5-3 5 3 6-2 5 3 4-3 6 4 4-3 6 4 9-5 5 4 5-2 5 4 5-2 6 4 8-3 6 4 4-1 6 4 9-3 6 5 7-2 7 4 9-2 6 6 13-3 6 6 8-2-12-13-4-1-167-174-88 110-5 8-16 18-15 21-8 9-2-1zM1017 328l-47 59-35 41-55 57-15 13-1-2-19 19-1-1 1 1-2 1-1 4-7 6-2 4 1 1-3 3 0 5-3 3 3 0-4 4 5-3 2 1-4 5 1-1 1 2-3 3 1 2-3 4 6 0-3 4 4 0-5 6 7 0-4 5 7 0-4 6 7 0-4 7 11-3 2 1-5 8 9-2 3-7 6-8-1-3 10-17 43-66 20-35 20-29 9-17 29-44 5-11zM32 263l50 107 6 16 16 32 4 12 31 65 4 12 16 33 1 8 4 10 12 3-4-8 1-1 16 4-3-7 3-1 7 2-3-6 1-2 9 3-3-6 1-2 9 3-3-5 1-2 3 1-3-6 1-2 9 4-2-5 4 0-3-4 1-2 3 1-2-5 2-1 7 3-2-3 1-2 2 1-2-4 4 0-3-4 4 0-2-2 1-2 2 1-2-4 1-1 2 2-6-10 1-1 2 2 0-4 3 0-6-7 3-3-3-3 0-3-4-5 1-1-15-19-10-10-1 2zM597 98l-19 32-14 20-9 17-20 29-20 35-20 29-9 17-31 47-26 44-5 6-3 1-6 9 0 2 8 9 6-9 13 15 6-8 8 10 6-8 9 11 6-8 8 11 6-8 5 6 5-8 9 12 6-7 4 6 6-7 4 6 6-7 9 12 6-6 4 6 6-6 4 6 6-6 4 7 6-6 4 7 6-6 4 7 12-12 4 8 6-6 4 7 6-5 5 8 11-11 4 8 6-5 4 8 12-10 4 8 12-10 4 8 12-8 5 8 16-13 5 9 11-8-5-11-4-2-11-23-19-45-16-32-6-16-16-32-4-12-9-17-2-7-9-17-2-7-9-17-2-7z"/>
<path fill="#0067cc" d="M328 629l6 1 4-5 12 2 4-5 10 4 7 1 5-4 5 2 5-5 10 4 6-4 11 4 4-4 6 2 4-3 11 4 5-3 6 3 4-4 6 3 5-3 11 6 4-3 6 3 5-3 5 3 5-2 5 3 9-5 6 4 5-2 6 3 3-2 6 4 9-4 6 5 4-2 6 4 9-3 5 5 9-3 6 5 4-2 6 5 13-3 6 5 9-2 5 6 5-1-14-14-3 0-161-168-122 154-3 0zM1017 328l-47 59-35 41-55 57-6 5-1-2-19 19-3 6-9 9 3 0-7 11 3-2 3 1-4 8 3 0-4 5 5-3 2 1-4 5 2 2-3 4 5-2 1 2-3 5 3-2 3 1-3 5 2 2-4 6 11-3 1 2-4 6 6-2 2 1-5 8 4-1 13-20-2-2 45-70 20-35 20-29 9-17 29-44 5-11zM32 263l50 107 6 16 16 32 4 12 31 65 4 12 9 17 0 8 8 16 6 3-4-8 1-2 10 3-3-6 1-2 15 4-3-7 5 0-4-8 1-1 9 4-3-6 1-2 9 4-3-7 1-1 3 2-2-4 1-2 8 3-2-5 4-1-3-4 4 0-3-5 2-1 8 4-2-3 1-2 3 1-3-3 1-2 2 1-2-3 4 0-7-10 1-1 3 2-2-3 3 0-2-3 1-1 2 2-6-8 1-2 2 2-1-2 2-1-5-5 1-2 2 2-6-7 1-2 2 1-8-8-8-13-9-9-1 2zM597 98l-19 32-14 20-9 17-20 29-20 35-20 29-9 17-31 47-9 17-10 15-3 0-3 4-3 7-6 8 3 6 6-9 9 11 6-9 13 16 5-9 5 6 6-8 8 11 6-8 9 12 6-8 4 6 6-7 9 12 5-7 5 6 5-7 5 6 5-7 9 13 6-6 4 7 6-7 5 7 5-6 5 7 11-12 4 7 6-6 5 8 5-6 5 7 11-11 5 8 5-5 5 8 11-11 5 9 11-11 4 8 6-4 5 9 17-15 4 8 2 0 10-8 4 9 5-3-9-21-3-1-3-5-19-45-16-32-6-16-16-32-4-12-9-17-2-7-9-17-2-7-9-17-2-7z"/>
<path fill="#006ec8" d="M880 482l-9 8-7 9-1-1 1 1-5 7 0 4-3 3 1 1-2 3 0 5-3 3 1 2-3 4 3 0-4 5 5-3 2 1-4 5 1-1 1 2-3 5 6-3 1 1-4 6 5-2 2 1-4 6 6-2 2 1-5 6 7 0-4 7 9-2 3-7 6-8-1-4-3-1 0-5-9-12 1-4-3-5 4-6 0-7 3-4 1-5 7-11zM337 618l11 3 5-5 11 3 4-5 11 4 5-4 12 4 5-5 11 5 4-4 6 2 4-4 11 5 5-3 6 3 4-4 6 3 4-3 6 3 4-3 6 3 4-3 6 3 5-3 5 4 5-3 5 4 5-3 6 4 5-2 6 3 3-2 6 4 9-4 5 4 5-1 5 4 8-3 7 4 9-3 5 5 9-3 6 6 9-3 5 6 9-3-7-8-7-4-152-158-88 110-5 8-16 18-5 8-5 5-2 0zM32 263l50 107 6 16 16 32 17 41 18 36 7 17 0 6 4 9 4 4 9 2-3-6 1-2 9 3-4-8 1-2 10 4-3-6 3-1 7 3-3-6 1-2 9 4-3-6 1-2 3 2-3-6 1-2 9 5-2-5 4-1-3-4 4 0-3-5 4 0-2-4 4 0-3-4 4 0-2-3 3 0-2-3 1-2 3 2-3-4 1-1 3 2-2-3 3 0-2-3 1-1 2 2-6-9 3-2 2 1-6-7-4-7 2-1-4-4-7-13-8-8-2 1zM597 98l-19 32-14 20-9 17-20 29-20 35-20 29-9 17-31 47-9 17-5 7-3 0-6 9 0 2 8 10 6-9 9 11 5-9 9 11 6-8 9 11 5-8 9 12 6-7 4 6 6-8 9 12 6-7 4 7 6-7 4 6 6-7 4 7 6-7 4 7 6-7 4 7 6-6 5 7 5-7 5 8 5-7 5 8 6-6 4 7 6-5 4 7 12-11 4 8 6-6 4 8 11-10 5 8 11-11 5 9 11-10 5 9 11-10 4 8 2 0 9-7-5-13-2 0-3-4-15-36-16-32-6-16-16-32-4-12-9-17-2-7-9-17-2-7-9-17-2-7z"/>
<path fill="#0075c5" d="M341 612l6 2 4-6 12 4 4-5 11 4 5-4 10 4 7-4 10 4 5-4 5 3 6-4 10 5 5-3 5 2 5-3 6 3 4-4 6 4 4-4 6 4 4-4 6 4 4-3 6 4 5-3 5 3 4-2 6 4 5-3 5 4 5-2 5 4 9-4 6 4 4-2 6 5 9-4 7 5 7-4 6 6 9-4 6 6 8-3 6 6 5-2-23-20-138-144-88 110-5 8-21 25-2 0zM1017 328l-73 90-57 60-1-2-14 15 1 1-4 5 0 4-5 7 3 0-4 4 3 0-6 9 3 0-4 5 3-2 3 1-3 4 3 1-4 5 5-2 2 1-4 6 5-3 2 1-4 7 5-3 2 1-4 7 5-2 2 1-4 7 4-1 10-15-1-3 10-18 20-29 20-35 20-29 9-17 29-44 5-11zM32 263l50 107 6 16 16 32 17 41 18 36 4 12-1 3 5 10 6 2-3-6 1-2 9 3-4-8 1-2 10 4-3-5 1-2 9 3-3-5 1-2 9 3-3-5 1-2 4 2-4-7 1-1 9 4-3-6 1-1 4 2-3-4 1-2 3 1-3-4 4 0-3-5 2-1 3 2-3-4 1-2 3 2-3-4 4 0-2-4 1-1 3 2-3-4 1-1 2 2-1-2 3 0-2-3 1-2 2 2-6-8 3 0-2-2 2-1-5-6 2-1-5-6 2-1-4-4-3-6 1-1-9-9-2 1zM597 98l-19 32-14 20-9 17-20 29-20 35-20 29-9 17-31 47-6 12-5 3-6 9 0 2 4 4 5-9 9 11 6-8 9 11 5-8 9 12 6-9 9 12 5-7 5 6 5-8 9 13 6-7 4 6 6-7 4 6 6-7 5 7 5-7 5 7 5-7 5 8 6-7 4 7 6-6 4 7 6-6 4 7 6-6 4 8 6-6 4 8 12-12 4 8 6-6 5 8 11-10 4 8 12-11 4 8 12-9 4 8 3-1 8-8 5 9 5-5-5-11-3-1-7-14-6-16-16-32-6-16-16-32-4-12-9-17-2-7-9-17-2-7-9-17-2-7z"/>
<path fill="#007cc1" d="M346 606l5 2 6-5 10 4 5-5 5 2 5-4 10 4 7-4 10 5 4-5 6 3 4-4 12 6 4-4 6 3 4-4 6 3 5-3 5 3 5-3 5 3 5-3 6 3 4-3 6 4 4-3 6 4 4-3 6 4 4-3 6 5 4-3 6 4 9-4 6 4 4-2 6 5 8-4 6 5 9-4 6 5 4-1 6 5 9-3 5 6 5-2-57-55-98-103-88 110-5 8-12 14-3 0zM902 460l-18 18-6 12 0 5-3 3 1 1-2 3 0 5-3 4 1 2-3 3 4-2 2 1-3 4 3 1-4 6 6-4 1 1-4 7 5-3 2 1-4 5 2 3-3 4 7 0-4 7 4-1 14-23-6-13 1-4-3-3 3-9-1-4-2-1 4-8 0-4 10-13zM32 263l50 107 6 16 16 32 17 41 12 24 0 6 10 22 6 2-4-9 1-1 10 4-4-7 1-2 4 2-3-7 2-1 8 4-3-6 1-2 9 4-3-5 1-2 4 2-4-7 1-1 9 4-3-5 4 0-3-6 1-1 4 2-3-4 4 0-2-3 1-2 2 1-2-4 4 0-3-4 1-1 3 2-2-3 3 0-2-4 1-1 3 2-3-4 1-1 3 2-1-2 2 0-6-9 3 0-2-2 2-1-5-6 2-1-5-6 3-1-8-12-9-9-2 1zM597 98l-19 32-14 20-9 17-20 29-20 35-43 66-3 7-10 15-3 0-12 20 3 6 6-9 9 12 5-9 5 6 6-9 8 12 6-8 7 8 2 5 6-8 4 6 6-8 9 13 5-7 5 6 5-7 5 7 5-8 5 7 6-7 4 7 6-7 4 8 6-7 4 7 6-6 4 7 6-6 4 7 6-6 5 8 5-6 5 8 11-12 5 8 5-6 5 9 11-12 5 9 11-11 4 8 6-4 5 9 11-11 4 9 6-4-10-22-2 0-3-4-2-7-16-32-6-16-16-32-4-12-9-17-2-7-9-17-2-7-9-17-2-7z"/>
<path fill="#0083bd" d="M354 595l6 3 5-6 11 5 5-5 11 5 4-5 6 3 5-5 11 6 4-4 6 3 4-4 6 3 5-4 11 6 4-3 6 3 4-3 6 3 4-3 6 3 5-3 5 4 5-3 5 4 5-3 6 4 8-5 6 4 4-3 6 5 5-2 5 4 9-4 6 5 4-2 6 5 9-4 5 5 9-4 6 6 4-2-13-14-2 1-30-30-98-103-88 110-8 11-3 0zM914 447l-13 13-2 5-8 9-3 6 0 5-5 7 2 1-2 3 3-3 2 1-3 4 2 1-3 4 1 3-3 3 4-2 2 1-3 4 3 1-4 6 6-3 1 2-4 6 6-3 1 1-4 7 5-2 3-7 9-13-3-1-4-5 2-5-3-3 2-6-3-4 7-20 10-12zM32 263l50 107 6 16 16 32 4 12 9 17 4 12 5 9-2 2 10 21 6 3-4-9 1-1 10 5-4-7 1-2 10 4-3-5 1-2 3 1-3-5 1-2 10 5-4-7 4 0-3-6 1-1 4 2-3-4 1-2 9 5-3-4 1-2 3 1-2-4 3 0-3-5 2-1 3 2-3-4 1-1 3 2-2-3 3 0-2-3 1-2 3 2-7-10 1-2 2 2 0-3 2 1-2-2 1-1 2 1-7-9 2-1 2 2-2-2 2-1-3-3 1-1-4-6 1-1-15-17-1 2zM597 98l-19 32-14 20-9 17-20 29-20 35-20 29-9 17-15 23-4 2-12 18 4 7 5-9 9 12 6-8 9 12 5-8 5 6 6-8 8 13 6-8 4 6 6-8 5 7 5-7 9 13 6-7 4 7 6-7 4 7 6-7 4 8 6-7 5 7 5-7 5 8 5-6 5 7 11-13 5 9 5-7 5 9 6-7 4 8 11-11 5 9 5-6 5 9 11-12 5 9 11-11 5 10 5-6-9-20-4-2-11-23-6-16-16-32-4-12-9-17-2-7-9-17-2-7-9-17-2-7z"/>
<path fill="#008aba" d="M363 584l12 6 4-6 11 6 5-5 6 3 4-5 11 6 5-5 6 4 4-5 11 7 5-4 6 3 4-4 6 4 4-4 6 4 4-4 6 4 4-3 6 4 4-3 6 4 5-3 5 4 5-3 5 5 9-6 6 5 4-3 6 5 9-5 5 5 5-2 6 5 8-4 6 6 9-5-8-8-2 1-122-127-91 115-4 1zM1017 328l-73 90-19 20-1-2-21 24-9 21 1 2-3 3 2 1-3 4 4-3 2 1-3 4 2 1-3 4 4-2 2 1-3 5 2 1-4 5 5-2 2 1-4 6 9-4 7-11-2-1 14-24 69-108 5-11zM32 263l50 107 6 16 16 32 4 12 9 17 4 10-1 5 5 10 12 5-4-8 1-1 10 5-4-7 1-2 4 2-3-6 2-1 8 4-3-4 1-2 4 2-3-5 1-2 8 4-3-6 1-1 4 2-3-4 1-2 3 2-3-4 1-2 3 2-3-5 2-1 3 2-3-4 1-2 3 2-3-4 1-1 3 2-2-3 1-2 3 2-3-3 1-1 3 2-7-10 2-1 2 2-3-3 1-1 3 2-6-8 1-2 2 2 1-1-4-6 1-1-3-2 1-1-4-7-8-8-1 2zM597 98l-19 32-14 20-9 17-20 29-20 35-20 29-9 17-10 15-3 0-3 4-3 8 8 11 5-8 9 12 6-8 4 6 6-8 9 13 5-8 5 7 6-8 8 14 6-8 4 7 6-7 5 7 5-8 5 8 5-7 5 7 6-7 4 8 6-7 4 8 6-7 4 8 6-7 4 8 12-12 4 8 6-6 4 8 12-12 4 8 6-5 5 8 11-11 5 8 10-9-5-13-4-2-6-12-6-16-16-32-4-12-9-17-2-7-9-17-2-7-9-17-2-7z"/>
<path fill="#0091b6" d="M368 579l11 5 4-5 6 3 5-5 11 6 4-5 6 3 5-4 5 3 5-5 11 7 4-4 6 4 5-4 5 4 5-4 5 4 5-4 6 4 4-4 6 4 4-3 6 4 4-3 6 5 4-3 6 4 9-6 6 5 4-3 6 5 4-2 6 5 9-5 5 6 5-3 5 6 9-5-28-25-98-103-58 74-7 7-5 8-14 17-9 7zM1017 328l-73 90-12 13-1-2-9 9-10 13-1 5-3 3 0 5-3 3 0 5-3 3 2 2-3 3 4-3 2 1-3 4 2 1-3 4 1 3-3 3 5-2 2 1-4 5 3 1-4 6 9-4 8-13-1-2 6-12 69-108 5-11zM32 263l84 182-1 4 6 14 12 5-4-7 1-2 4 2-4-8 1-1 10 6-4-7 1-2 4 2-3-4 1-2 4 2-3-6 2-1 7 4-2-4 3 0-3-6 1-1 4 2-3-5 1-1 3 2-2-3 1-2 2 1-2-4 1-1 3 2-3-4 2-1 2 2-2-3 1-2 2 2-2-3 1-2 3 2-7-10 2-1 2 2-3-3 5 0-4-6 1-5-5-8-8-8-2 1zM597 98l-19 32-14 20-9 17-20 29-20 35-20 29-9 17-5 7-3 0-6 9 8 14 6-9 4 6 6-9 9 14 6-9 4 7 6-8 4 7 6-8 9 14 5-8 5 7 5-7 5 7 6-7 4 7 6-7 4 7 6-7 4 8 6-7 4 8 6-7 4 8 6-7 5 9 11-14 4 8 6-5 5 8 5-6 5 9 11-12 5 9 5-6 5 9 11-12-5-10-3-1-3-5-6-16-16-32-4-12-9-17-2-7-9-17-2-7-9-17-2-7z"/>
<path fill="#0098b3" d="M372 573l6 3 4-5 6 3 5-5 11 6 4-5 6 3 5-4 11 6 4-4 6 4 4-5 6 4 4-4 6 4 4-4 6 4 4-4 6 4 5-4 5 5 5-4 5 5 5-4 6 5 4-3 6 4 4-3 6 5 9-6 5 6 5-3 5 5 9-5 6 6 4-3 6 6 4-3-13-14-4 0-103-108-58 74-7 7-5 8-9 10-2 0zM938 421l-16 19-1 5-3 3 0 5-3 3 0 5-3 3 2 2-3 3 2 1-3 4 4-3 2 2-3 3 1 3-3 3 6-3 1 1-3 6 2 1-4 6 5-2 12-21-3-2 1-3-3-3 2-3 0-6 7-20 5-8zM32 263l50 107 6 16 20 42-1 5 9 19 6 3-4-7 1-2 5 3-4-7 2-1 9 5-4-7 1-2 4 2-3-5 2-1 8 4-3-4 1-2 3 1-2-4 3 0-3-6 1-1 4 2-3-4 1-2 3 2-2-3 1-2 2 2-3-5 2-1 3 2-3-4 2-1 2 2-2-4 1-1 2 2-2-3 1-2 3 2-3-3 1-1 3 2-7-10 5 0-4-6 2-3-15-18-1 2zM597 98l-19 32-14 20-9 17-20 29-20 35-21 32-4 2-12 19 4 7 5-9 5 7 5-9 7 9 2 5 6-9 4 7 6-8 9 14 6-8 4 7 6-8 4 7 6-8 4 8 6-8 4 8 6-7 4 7 6-7 5 8 5-7 5 8 5-7 5 8 6-7 4 8 6-6 4 8 12-13 4 8 6-5 4 8 11-12 5 9 6-6 4 9 5-4-8-20-4-3-16-33-4-12-9-17-2-7-9-17-2-7-9-17-2-7z"/>
<path fill="#009faf" d="M381 562l11 7 5-6 5 4 5-5 11 7 5-5 5 3 5-4 5 4 5-5 6 4 4-4 6 4 4-4 6 4 4-4 6 4 4-4 6 5 4-4 6 5 5-4 5 5 5-4 5 5 5-3 5 5 5-3 6 5 8-6 6 6 4-3 6 6 9-6-14-11-95-99-58 74-7 7-5 8-5 5-2 0zM950 407l-14 16-5 8-1 6-3 4 1 1-3 3 1-1 1 2-3 3 0 6-3 3 3 0-4 5 2 1-3 4 4-3 2 1-3 5 2 1-4 5 9-5 8-13-3-3 3-9-1-11 1-4 14-21zM32 263l71 153-1 4 6 14 11 5-3-5 1-2 4 2-4-7 1-1 10 6-4-7 4 0-3-6 1-1 4 2-3-4 1-2 4 3-3-5 1-2 2 1-3-5 2-1 3 2-3-5 1-1 3 2-2-3 1-2 2 2-2-3 1-2 3 2-3-4 2-1 2 2-2-4 1-1 2 2-2-3 1-1 3 2-3-3 1-1 3 2-7-10 5 0-6-11-8-8-1 2zM597 98l-19 32-14 20-9 17-20 29-20 35-16 24-3 0-3 4-3 8 7 13 6-9 5 7 5-9 5 6 4 9 6-9 4 7 6-8 4 7 6-8 4 8 6-8 5 8 5-8 5 8 5-8 5 8 6-7 4 8 6-8 4 8 6-7 4 8 6-6 4 8 6-7 4 8 6-6 5 9 11-13 4 8 6-5 4 8 12-11-5-11-4-2-11-23-4-12-9-17-2-7-9-17-2-7-9-17-2-7z"/>
<path fill="#00a6ac" d="M385 557l6 3 5-5 11 7 4-5 6 3 4-5 6 4 4-5 6 4 4-4 12 8 4-5 6 5 4-5 6 5 5-4 5 4 5-4 5 5 5-4 6 5 8-7 6 5 4-3 6 5 5-3 5 5 5-3 5 5 9-6 6 6 4-2-13-14-2 1-88-92-66 83-3 0zM1017 328l-56 69-1-2-8 9-15 21 0 2-3 3 0 4-3 3 0 5-3 3 5-4 1 1-3 4 2 1-3 4 2 1-3 4 2 1-4 5 6-3 1 1-4 5 5-2 3-7 9-13-2-1 49-77 5-11zM32 263l63 136-1 5 9 19 6 3-3-5 2-2 8 5-3-6 2-1 3 2-3-5 1-2 3 2-4-7 2-1 3 2-3-6 1-1 9 6-3-4 1-2 3 2-2-4 3 0-3-5 2-1 3 2-3-4 2-1 2 2-2-3 1-2 2 2-5-9 1-2 1 1-2-4 2-1 2 2-3-3 5 0-5-8 1-2 1 1-2-4-14-14-1 2zM597 98l-19 32-14 20-9 17-20 29-20 35-5 7-3 0-12 18 4 8 5-9 7 9 2 5 6-8 4 7 6-9 5 8 5-9 5 8 5-8 5 6 4 9 6-8 4 8 6-8 4 8 6-8 5 9 5-8 5 8 5-7 5 8 11-14 5 9 5-7 5 9 5-7 5 9 6-7 5 8 10-12 5 9 5-5-9-21-3-1-3-5-4-12-9-17-2-7-9-17-2-7-9-17-2-7z"/>
<path fill="#00aea8" d="M394 546l11 7 5-5 5 4 5-5 11 7 5-4 5 4 5-5 6 4 4-4 6 4 4-4 6 4 4-4 6 5 4-4 6 4 4-3 6 5 5-4 5 5 5-4 5 6 9-7 6 5 4-3 6 6 9-6-8-8-2 0-7-6-75-79-62 78-2-1zM968 386l-20 24-1 5-5 7 1 1-2 2 0 5-3 3 2 2-3 3 1 2-2 3 4-4 2 1-5 10 9-5 8-12-2-4 2-11 7-18 8-10zM32 263l58 126-1 4 6 12 11 6-3-5 1-2 4 2-3-5 1-2 9 6-3-6 2-1 2 2-3-5 1-2 3 2-3-6 1-1 3 2-2-3 1-2 2 1-2-4 2-1 2 2-3-5 1-1 3 2-2-3 1-2 2 2-2-3 1-1 3 2-3-4 1-1 3 2-6-9 1-2 2 2-1-2 2 0-11-17-4-4-1 2-9-8zM597 98l-19 32-14 20-9 17-20 29-9 17-9 14-4 2-6 9 3 8 5 7 5-8 5 7 5-9 9 15 6-8 4 8 6-9 4 8 6-8 5 8 5-8 5 8 5-8 5 9 6-8 4 8 6-7 4 8 6-7 4 8 6-6 5 8 11-13 4 8 6-6 5 8 10-11-5-13-3-1-11-23-2-7-9-17-2-7-9-17-2-7z"/>
<path fill="#00b5a5" d="M398 540l6 4 4-5 12 8 4-6 6 4 4-4 6 4 5-5 5 4 5-4 5 4 5-4 5 4 5-4 6 5 4-4 6 5 4-4 6 5 4-4 6 5 4-4 6 6 4-4 6 6 9-7 6 6 4-3-8-8-2 0-76-79-56 71-4 1zM973 380l-15 18-1 5-5 7 1 1-2 2 1-1 1 2-3 3 1 1-3 3 2 2-3 3 3 0-6 10 5-3 1 2-2 3 4-2 8-13 4-13-2-5 1-5 11-16zM32 263l54 117-1 4 5 11 6 4-4-8 2-1 9 6-3-6 1-1 3 2-3-5 1-2 4 3-3-5 1-2 3 2-3-5 1-2 3 2-3-5 1-1 3 2-2-4 2-1 2 2-3-5 1-1 3 2-3-4 2-1 2 2-2-3 1-2 3 3-3-4 2-1 2 2-3-3 1-1 3 2-6-9 1-2 2 2-3-6-8-8-1 2-3-2zM597 98l-19 32-14 20-9 17-20 29-13 23-3 0-6 10 3 8 6-9 8 15 6-8 5 7 5-8 5 8 5-9 5 8 6-8 4 8 6-8 4 8 6-8 4 8 6-7 4 8 6-7 4 8 6-7 5 9 5-7 5 9 5-8 5 10 11-15 5 10 5-7-5-12-4-2-6-12-2-7-9-17-2-7-9-17-2-7z"/>
<path fill="#00bca1" d="M403 535l5 4 5-6 6 4 4-5 6 4 4-5 6 5 4-5 12 9 4-5 6 5 4-5 6 5 4-4 6 5 4-4 6 5 9-8 6 5 4-4 6 6 4-4 6 6 4-4 6 6 4-3-13-14-6-3-61-64-44 56-11 9zM981 370l-12 14 1 1-2 1-10 16 1 1-2 2 0 5-3 3 4-3 1 2-2 2 3 0-4 5 0 6-3 4 5-2 13-22-2-5 4-9 0-4 9-13zM32 263l45 97-1 4 9 20 7 5-3-6 2-1 2 2-4-7 2-1 3 2-3-5 1-2 4 3-3-5 1-2 9 7-3-6 1-1 3 3-3-6 2-1 2 2-3-4 2-1 3 3-3-5 1-2 2 2-6-12 1-1 2 2-2-4 1-1 3 3-2-3 1-1 2 2-1-2 2 0-3-6-12-12-1 2zM597 98l-19 32-14 20-9 17-21 32-4 2-12 19 4 8 5-9 5 8 6-9 4 8 6-9 4 8 6-8 9 16 5-8 5 8 5-8 5 8 6-8 4 8 6-7 4 8 11-15 5 9 6-7 4 8 6-6 4 8 6-6 5 8 5-6-10-21-3-1-9-18-2-7-9-17-2-7z"/>
<path fill="#00c39e" d="M411 524l6 4 5-5 11 8 4-5 6 5 5-5 5 4 5-4 5 5 5-5 6 5 4-5 6 5 4-4 6 5 4-4 6 6 4-4 6 5 9-8 6 6 4-3-8-8-3 0-58-61-44 55-2 0zM1017 328l-30 37-2 0-13 16 1 1-5 7 1-1 1 2-3 3 1 3-4 5 1-1 1 2-3 3 1 2-2 3 4-4 1 2-2 3 4-3 10-15 0-5zM32 263l40 86-1 5 6 12 6 4-4-7 2-1 9 8-3-7 2-1 2 2-3-5 2-1 3 3-3-5 1-2 2 1-2-3 1-2 3 2-3-5 2-1 2 2-2-3 1-2 2 2-2-4 2-1 2 2-3-4 2-1 2 2-7-11 2-1 2 2-2-4-9-9-1 2zM597 98l-19 32-14 20-9 17-16 24-3 0-6 10 3 9 6-9 9 16 5-9 5 9 5-9 5 8 6-8 4 8 6-8 4 8 6-7 4 8 6-8 4 8 6-7 4 8 6-6 5 9 3-6 8-9 4 8 6-6-5-11-4-2-4-8-2-7-9-17-2-7z"/>
<path fill="#00ca9a" d="M416 518l6 5 4-6 6 5 4-5 6 4 4-5 6 5 4-5 6 5 4-5 6 5 5-4 5 5 5-5 5 6 5-4 6 5 4-4 6 6 4-4 6 5 4-3-13-14-2 1-48-50-35 44-2 0zM995 353l-13 15 0 4-5 8 1-1 1 2-5 7 1-1 1 2-3 3 3 0-6 10 5-3 12-20-2-2 4-7 0-3 7-10zM32 263l32 69 0 7 7 15 3 4 4 2-3-6 2-1 3 3-4-7 2-1 3 2-3-5 2-1 2 2-3-5 1-1 4 3-3-6 2-1 2 2-3-5 1-1 3 2-3-4 2-1 2 2-2-4 2-1 2 2-2-3 1-1 2 2-2-2 1-2 2 2-3-6-13-13-1 2zM597 98l-19 32-14 20-9 17-5 7-3 0-12 18 4 9 6-9 4 8 6-9 4 8 6-8 4 8 6-8 4 8 6-8 4 8 6-7 5 8 5-8 5 9 5-8 5 10 6-8 4 8 6-7 4 9 5-6-9-22-4-2-6-12-2-7z"/>
<path fill="#00d197" d="M425 507l11 10 5-6 5 5 5-5 5 5 5-5 5 5 5-5 6 6 4-5 6 5 4-4 6 6 4-5 6 6 9-8-8-8-2 1-42-44-31 39-3 0zM1001 345l-14 18-3 6 1 2-2 1 1 1-4 6 3 0-4 5 1 1-2 3 8-7 10-15 0-4 6-13zM32 263l28 59-1 5 4 9 12 10-3-6 2-1 3 3-3-5 1-2 3 3-3-5 1-2 3 2-3-5 2-1 3 3-2-4 1-1 2 2-3-6 1-1 3 3-2-4 1-1 2 2-4-8-11-14-1 2zM597 98l-40 65-4 2-6 9 0 3 8 14 5-8 5 8 6-9 4 8 6-8 4 8 6-7 4 8 6-8 4 8 6-7 4 8 6-7 5 10 11-16-5-10-3-1-3-5-2-7z"/>
<path fill="#00d893" d="M429 502l6 5 4-6 6 5 4-5 6 5 4-5 6 5 5-5 5 6 5-5 5 5 5-4 6 6 4-5 6 6 4-4-8-8-2 1-36-38-27 34-2-1zM1005 341l-4 3-7 11 1 3-2 1 0 4-3 3 3 0-4 5 1 1-2 3 4-3 11-19 3-8zM63 292l-2 7-6 11-1 6 5 11 6 4-3-5 2-1 3 3-3-5 1-2 3 3-3-5 1-2 3 2-3-5 2-1 3 3-2-4 1-1 2 2-3-6 1-1 3 3-2-4 1-1 2 2-3-6zM597 98l-34 55-4 2-6 10 3 9 6-9 4 8 6-8 4 8 6-8 4 8 6-8 5 9 5-8 5 9 5-8 5 9 5-8 5 10 5-7-5-13-3-1-9-18-4-12z"/>
<path fill="#00df8f" d="M433 496l6 5 5-5 5 5 5-5 5 5 5-5 6 5 4-5 6 6 4-5 6 6 4-5 6 6 4-4-13-14-2 1-25-26-18 23-2-1zM1016 326l-15 18 0 5-2 1-2 4 1 3-2 1 1 3-4 5 5-4 3-7 14-20 2-5zM32 263l15 32-2 2 10 21 6 5-3-5 1-2 3 2-3-6 1-1 4 4-2-5 1-1 2 2-3-6 2-1 2 2-2-4 1-1 3 3-2-3 1-2 1 1-3-6-13-13-1 2zM597 98l-23 38-4 1-11 17-1 4 4 7 5-9 5 9 6-9 4 8 6-8 4 8 6-7 4 8 6-8 4 9 6-7 4 8 6-7-10-21-3-1z"/>
<path fill="#00e68c" d="M442 485l6 5 4-5 6 5 4-5 6 6 5-5 5 5 5-4 5 5 5-4-8-8-2 1-19-20-12 16-4 1zM1020 321l-8 10 1 1-3 2 1 1-4 5 0 5 14-20zM46 274l-1 5-3 3-1 6 5 11 6 4-3-5 2-1 2 2-3-5 2-1 3 3-3-6 1-1 3 3-3-5 2-1 2 2zM597 98l-17 28-4 2-6 9 0 3 3 6 6-8 4 8 6-8 4 9 6-8 5 9 5-8 5 9 5-8-5-12-3-1z"/>
<path fill="#00ed88" d="M447 480l5 5 5-5 5 5 5-5 6 6 4-5 6 6 4-5-13-14-2 1-8-8-5 6-2 0-4 4zM1028 313l-2 0-13 18 1 3-2 1 0 2 3-2zM35 263l-3 5 9 20 7 7-2-5 1-1 2 2-3-7 1-1 3 3-2-3 1-2 3 3-4-8zM597 98l-6 11-4 1-11 18 3 9 6-8 4 8 6-8 4 9 6-8 4 9 6-8-10-21-3-1z"/>
<path fill="#00f485" d="M455 469l6 5 5-5 5 6 5-5-8-8-2 1-2-2-2 0zM29 256l0 6 4 8 6 6-3-7 1-1 3 3-3-6zM597 98l-4 3-6 9 0 3 3 6 6-8 5 10 5-9-5-11z"/>
<path fill="#00fb81" d="M464 458l-4 5 6 6 4-5zM25 252l3 7 7 7-4-8zM597 94l-4 7 3 9 5-7z"/>
</g>
<g clip-path="url(#f2c)"><use href="#f2s" filter="url(#sb)"/></g>
</g>
<g font-size="10" fill="#262626">
<text x="523" y="8.6" text-anchor="middle">Function Topology</text>
<text x="391.7" y="169.5" text-anchor="end">0</text>
<text x="391.7" y="150.7" text-anchor="end">2000</text>
<text x="391.7" y="132" text-anchor="end">4000</text>
<text x="391.7" y="113.3" text-anchor="end">6000</text>
<text x="391.7" y="94.5" text-anchor="end">8000</text>
<text x="391.7" y="75.8" text-anchor="end">10000</text>
<text x="391.7" y="57" text-anchor="end">12000</text>
<text x="501" y="229.5" text-anchor="end">-100</text>
<text x="446.1" y="203.7" text-anchor="end">0</text>
<text x="391.2" y="178" text-anchor="end">100</text>
<text x="509" y="230">-100</text>
<text x="544.8" y="220.1">-50</text>
<text x="580.6" y="210.2">0</text>
<text x="616.4" y="200.4">50</text>
<text x="652.2" y="190.5">100</text>
<text x="443.1" y="232.7" text-anchor="middle">x<tspan font-size="7.8" dy="3.0">2</tspan></text>
<text x="573.6" y="234.7" text-anchor="middle">x</text>
<text transform="translate(365.2,103.3) rotate(-90)" text-anchor="middle" xml:space="preserve">F2( x<tspan font-size="7.8" dy="3.0">1</tspan><tspan dy="-3.0"> , x</tspan><tspan font-size="7.8" dy="3.0">2</tspan><tspan dy="-3.0"> )</tspan></text>
</g>
<g font-family="Liberation Serif, Times New Roman, serif" fill="#000" stroke="#000" stroke-width=".5">
<text transform="translate(460.3 296.8) scale(.875 1)" font-size="46" font-style="italic">F</text>
<text transform="translate(483 306.5) scale(1.15 1)" font-size="31.3">2</text>
</g>
</g>
<g id="f3">
<path d="M834.8 211.2L723 159.7M723 159.7L723 47.3M871.2 201.3L759.4 149.8M759.4 149.8L759.4 37.4M907.6 191.4L795.9 140M795.9 140L795.9 27.6M944.1 181.6L832.3 130.1M832.3 130.1L832.3 17.7M980.5 171.7L868.7 120.2M868.7 120.2L868.7 7.8M834.8 211.2L980.5 171.7M980.5 171.7L980.5 59.3M778.9 185.5L924.6 145.9M924.6 145.9L924.6 33.5M723 159.7L868.7 120.2M868.7 120.2L868.7 7.8M723 159.7L868.7 120.2M868.7 120.2L980.5 171.7M723 137.2L868.7 97.7M868.7 97.7L980.5 149.2M723 114.8L868.7 75.2M868.7 75.2L980.5 126.7M723 92.3L868.7 52.8M868.7 52.8L980.5 104.2M723 69.8L868.7 30.3M868.7 30.3L980.5 81.8M723 47.3L868.7 7.8M868.7 7.8L980.5 59.3" fill="none" stroke="#e6e6e6" stroke-width="0.7"/>
<g transform="scale(.1)" fill="none" stroke-width="5" opacity="0.5">
<path stroke="#001af2" d="M9526 1588l19 11 16 16 2 12-9 17-20 16-30 14-81 27-110 24-154 25-185 21-177 15-225 12-199 4-180 0-191-5-170-11-128-15-110-19-85-26M7509 1726l-19-11-16-16-2-12 9-17 20-15 30-15 81-27 110-24 154-25 185-21 177-15 225-12 199-4 180 0 191 5 170 12 128 14 110 19 85 26"/>
<path stroke="#0033e6" d="M9805 1717l-172 38-206 33-240 28-274 23-278 15-302 9-272 0-272-8M7230 1597l172-38 206-33 240-28 274-23 278-15 302-8 272 0 272 7"/>
<path stroke="#004cd9" d="M9290 1857l-340 26-343 18-356 8-346-1M7745 1457l340-26 343-18 356-8 346 1"/>
<path stroke="#0066cc" d="M9076 1914l-269 16-283 12-530 7M7959 1400l269-16 283-12 530-7"/>
<path stroke="#0080bf" d="M8913 1959l-427 17-418 7M8122 1355l427-17 418-7"/>
<path stroke="#0099b2" d="M8775 1996l-313 12-328 6M8260 1318l313-11 328-7"/>
<path stroke="#00b2a6" d="M8653 2029l-459 12M8382 1285l459-12"/>
<path stroke="#00cc99" d="M8543 2059l-294 7M8492 1255l294-7"/>
<path stroke="#00e68c" d="M8442 2086l-142 4M8593 1228l142-4"/>
</g>
<path d="M723 159.7L834.8 211.2L980.5 171.7" fill="none" stroke="#a8a8a8" stroke-width="0.9"/>
<path d="M723 159.7L723 47.3" fill="none" stroke="#a8a8a8" stroke-width="0.9"/>
<path d="M834.8 211.2l-2.9 0.8M778.9 185.5l-2.9 0.8M723 159.7l-2.9 0.8M834.8 211.2l2.7 1.3M871.2 201.3l2.7 1.3M907.6 191.4l2.7 1.3M944.1 181.6l2.7 1.3M980.5 171.7l2.7 1.3M723 159.7l-2.9 0.8M723 137.2l-2.9 0.8M723 114.8l-2.9 0.8M723 92.3l-2.9 0.8M723 69.8l-2.9 0.8M723 47.3l-2.9 0.8" fill="none" stroke="#a8a8a8" stroke-width="0.9"/>
<clipPath id="f3c"><path clip-rule="evenodd" d="M1054 593l-26 7-34 1-30-6-39-17-30-21-31-28-35-40-31-43-36-58-48-93-27-59-4-12-14-30-4-13-5-9-17-48-5-9-4-14-5-10-4-15-5-10-13-39-19 27-3 7-30 40-5 9-74 97-60 70-34 36-58 56-58 49-56 41-7 3-28 19-35 19-45 21-52 19-19 5 29 34 39 36 30 20 27 12 35 9 59 8 79 8 64 4 58 2 106-1 74-4 85-8 7-2 9 0 7-2 9 0 35-5 106-19 13-4 41-8 12-4 10-1z"/></clipPath>
<g transform="translate(717,1) scale(0.25)" fill-rule="evenodd">
<g id="f3s">
<path fill="#000bfa" d="M524 676l-1-2-8-1-71 1-4 3 72 1zM408 676l11 1-1-3-3-1-6 1zM579 675l-4-3-17 0-4 3-4-2-18 0-3 1-1 3zM639 671l-4-3-5 1-2 3-4-3-7 0-4 3-4-2-8 0-4 3-7-2-3 1-1 3zM692 666l-1-2-4-1-8 2-1 3zM719 663l-1-2-4-1-8 2-1 3zM319 607l-1-2-4-1-21 8-4 0-6-3-42 12-2 5-11 2-2 5-5 1-3 11 3 3 1 4 8 4 31-9 23-12 24-16 10-8z"/>
<path fill="#0012f6" d="M1014 603l-29-1-21-5-41-18-30-21-31-28-35-40-22-30-2-5-7-8-2-5-16-23-27-46-48-96-36-82-4-13-5-9-17-48-5-9-4-14-5-10-4-15-5-10-12-35-16 23-3 7-30 40-5 9-74 97-60 70-34 36-58 56-58 49-56 41-7 3-28 19-35 19-47 22-52 19-15 4 27 32 39 36 30 20 25 11 41 12 8 0 7 2 15-1 23 4 18 1 8 4 96 8 51 2 115 0 27-2 31 0 12-2 80-5 6-2 38-3 6-2 10 0 68-11 0-2 22-3 51-10 13-4 20-3zM316 608l-7 5 2 1-4 4-24 16-25 13-24 7-1-2-3 1-5-3 0-2 3 0-7-4 4-2-3-2 1-1 4 0-3-1 0-2 10-2-4-3 1-1 16-3-4-3 1-1 18-4 21-7 7 4 24-9z"/>
<path fill="#0019f3" d="M1014 603l-29-1-1-3-29-7-30-14-29-21-4 0-26-23-39-44-22-30-2-5-7-8-2-5-16-23-27-46-48-96-36-82-4-13-5-9-17-48-5-9-4-14-5-10-4-15-5-10-12-35-16 23-3 7-30 40-5 9-74 97-60 70-34 36-58 56-58 49-56 41-7 3-28 19-35 19-47 22-52 19-15 4 27 32 38 35 1 3 28 19 27 12 30 8 32 5 82 9 46 2 12 2 60 0 7 2 61 0 12-2 15 2 11-2 15 1 12-2 30 1 3-2 7 1 3-2 14 1 80-5 3-2 20 0 6-2 32-2 6-2 11 0 11-3 11 0 23-5 9 0 68-13-1-1 3-2 2 0 1 2 8-2-1-1 2-2 20-3 33-9 10-1 7-3zM342 584l-4 3 1 2-6 7-26 22-37 23-12 6-18 6-17 4-24-1-14-3-26-11-4-3 4-1-6-4 3-2-3-2 5-1-4-2 5-2-3-3 10-2-3-3 1-1 33-7-4-4 11-4 7-1 5 4 45-15 6 4 23-9 4 5 17-7 6 5 17-8 4 5zM736 571l6-4 4 4 6-4 4 5 6-4 5 4 6-4 4 4 6-4 9 8 6-4 4 4 6-4 4 4 6-4 9 7 6-4 4 4 6-4 9 6 6-3 9 6 6-4 13 9 6-4 28 13 3 3-4 2 8 4-5 3-3 0 0 2-18 0-35-3-41-7-58-16-26-10-2-2 1-1z"/>
<path fill="#0020ef" d="M1016 602l-34-3-4 2 2 0 0 2-9 3 1 1-4 1-1 2-15 2-51 0-35-3-46-8-33-10-8-1-47-17-42-20 2-1-4-2 11-8 4 5 6-4 4 5 6-5 5 5 6-4 4 5 6-4 4 5 6-5 5 5 5-4 5 5 6-5 4 5 6-4 5 4 5-4 5 4 6-4 4 5 6-5 9 9 6-4 4 4 6-4 5 4 5-4 9 7 6-4 5 4 5-4 9 7 6-4 5 4 5-4-28-25-4 0-38-43-31-43-45-74-48-96-36-82-4-13-5-9-8-24-5-10-4-14-5-9-4-14-5-10-4-15-5-10-12-35-16 23-3 7-30 40-5 9-74 97-60 70-34 36-58 56-58 49-56 41-7 3-28 19-35 19-47 22-52 19-15 4 9 12 26 28-2 1 33 29 6 0-3-3 1-1 10-1-4-3 11-3-4-3 1-1 20-3 7-3 32-7 38-14 7 5 21-9 7 5 22-10 5 6 16-8 6 5 17-8 5 6 17-9 5 5 11-6 5 6 12-7 1 2-5 5 2 2-30 32-26 22-24 16-25 13-26 8-51 0 36 4 7 2 46 4 7-1 4 2 27 0 4 2 58 0 4 2 8-1 7 2 24 0 3-2 5 2 5-2 10 2 24 0 3-2 10 2 13 0 3-2 34 1 3-2 13 2 3-2 39 0 3-2 14 2 3-2 9-1 14 1 3-2 13 1 3-2 13 1 3-2 13 1 3-2 30-1 3-2 19 0 3-2 36-2 6-2 15 0 3-2 19-1 3-2 24-2 3-2 10 0 33-6 8-3 50-10-1-1 2-2 2 2 15-3 7-5 24-6 20-3 6-2z"/>
<path fill="#0027ec" d="M1026 601l-13 0-26 8-35 3-51 0-35-3-41-7-28-7-10-4-8-1-47-17-61-29-22-13 2-1-3-3 6-5 5 5 6-4 4 6 6-5 4 6 6-5 5 6 11-9 5 5 6-4 4 5 6-4 4 5 6-4 5 5 6-4 4 5 6-5 4 5 6-4 5 5 6-4 4 5 6-5 4 5 6-5 5 5 5-4 5 5 6-5 4 5 6-5 4 5 6-4 5 4 6-4 4 4 6-4 9 8 5-4-6-5-18-21-2 1-8-8-31-41-2-5-7-8-2-5-16-23-36-63-39-79-36-82-4-13-5-9-8-24-5-10-4-14-5-9-4-14-5-10-4-15-5-10-12-35-16 23-3 7-30 40-5 9-74 97-60 70-34 36-58 56-58 49-56 41-7 3-28 19-35 19-47 22-52 19-15 4 13 16-2 1 24 26 22-3 2-1-4-4 4-2 26-6 22-8 6 6 29-10 10-5 6 6 23-10 5 6 22-11 5 6 17-8 6 6 16-9 6 6 16-9 5 6 11-7 5 7 12-7 5 6 16-10 6 6 11-7 4 7 2 0-2 3 0 4-31 36-39 35-24 16-25 13-13 4-12 1-10 3-16 1 29 3 8-1 4 2 6-1 4 2 27 0 4 2 47 0 4 2 5-2 6 2 5-2 5 2 5-2 5 2 7-2 8 3 14 0 3-2 5 2 5-2 14 0 6 2 14 0 3-2 13 0 7 2 6-2 14 0 9 2 3-2 8 1 3-2 10 2 6-2 7 1 3-2 10 2 6-2 8 1 3-2 10 2 9-2 9 2 4-3 7 1 3-2 13 2 3-2 13 1 3-2 14 1 3-2 13 1 3-2 28 0 4-3 35 0 3-2 13 0 3-2 13 0 3-2 19 0 3-2 19-1 3-2 15 0 7-3 21-1 23-5 9 0 7-3 34-5 12-4 10-1z"/>
<path fill="#002ee8" d="M1049 594l-21 6-62 10-10 0-6 2-49 0-35-3-41-7-28-7-10-4-8-1-61-23-47-23-50-30 2-1-3-2 11-9 4 6 6-5 4 7 6-5 5 6 6-5 4 6 12-9 4 6 6-5 4 6 6-4 5 5 6-4 4 6 12-10 4 6 6-5 4 6 6-5 5 6 6-5 4 5 6-4 4 5 6-5 5 6 6-5 4 5 6-4 4 5 6-5 5 5 5-5 5 6 6-5 4 5 6-5 4 5 5-5-18-22-4-1-29-40-36-58-18-33-39-79-36-82-4-13-5-9-8-24-5-10-4-14-5-9-4-14-5-10-4-15-5-10-12-35-16 23-3 7-30 40-5 9-74 97-60 70-34 36-58 56-58 49-56 41-7 3-28 19-35 19-47 22-52 19-14 3-3 3 15 17 4 0 21-5 10-4 8-1 9-4 7 6 39-15 6 6 28-13 5 7 17-9 6 7 22-12 4 7 18-9 5 6 17-10 4 7 12-7 5 7 17-10 5 6 11-7 5 7 11-7 5 7 17-12 5 7 11-7 5 6 11-7 5 6-2 2 2 2-37 47-35 35-17 14-37 23-10 5-8 0-12 5-10 2 5 2 27 0 3 2 7-2 4 2 6-1 4 2 5-2 5 2 27-1 4 2 5-2 6 2 5-2 7 2 4-2 9 3 13 0 3-2 6 2 5-2 7 2 6-2 10 3 3-2 7 1 5-2 6 2 3-2 7 1 3-2 10 3 6-2 6 2 5-3 9 3 6-2 8 1 6-2 9 3 4-3 6 2 5-3 9 3 7-3 6 2 4-3 10 3 9-3 9 3 4-3 7 1 6-2 9 2 5-3 9 2 6-2 13 2 4-3 6 1 4-3 12 2 4-3 12 2 5-3 11 2 5-3 11 2 5-3 17 2 5-3 11 1 5-3 13 1 3-2 19 0 3-2 13 0 3-2 18 0 4-3 19 0 3-2 23-1 5-3 14 0 12-4 10 0 51-9 59-15z"/>
<path fill="#0035e4" d="M1054 593l-26 7-41 7-35 3-31 0-4 2-51-3-46-8-33-10-8-1-61-23-47-23-10-7-13-6-20-12-34-24 1-1-2-2 8-7 5 7 5-5 5 7 12-10 4 6 6-4 4 6 6-5 5 7 11-10 5 6 6-5 4 7 6-5 4 6 6-5 5 6 11-10 5 7 6-5 4 6 6-5 4 6 6-5 5 6 6-5 4 6 12-10 4 6 6-5 4 6 6-6 5 6 6-5 4 6 6-5 4 6 6-6 5 6 4-4 0-2-13-18-3 0-8-10-2-5-7-8-2-5-16-23-27-46-39-77-27-59-4-12-14-30-4-13-5-9-17-48-5-9-4-14-5-10-4-15-5-10-12-35-16 23-3 7-67 92-42 54-24 27-7 10-63 69-46 45-29 26-41 34-39 29-52 34-37 20-1-2-56 26-46 16-13 3 4 5 64-21 6 6 27-12 7 6 22-10 5 6 23-11 5 6 17-9 5 7 17-10 5 7 17-10 4 7 12-7 5 7 17-10 4 7 12-8 4 7 12-7 4 7 18-12 4 7 12-7 5 7 11-8 5 7 11-8 5 7 11-9 5 6 0 5-24 34-39 46-30 28-33 23-13 7-5 0-7 4-10 3 4 2 7-2 4 2 6-1 4 2 5-2 5 2 5-2 6 2 5-2 5 2 8-1 8 3 12 0 3-2 6 2 5-2 5 2 5-2 7 2 5-2 9 4 6-3 5 2 5-2 6 2 4-3 5 2 7-2 9 4 6-3 6 2 4-3 5 2 8-2 8 3 5-2 7 1 3-2 4 0 9 3 4-3 6 2 4-3 10 3 6-2 7 1 3-2 4 0 8 3 5-3 6 1 4-3 10 3 6-3 12 3 4-3 6 2 5-3 9 2 6-2 13 2 4-3 12 2 4-3 6 2 4-3 10 2 7-3 11 2 5-3 11 2 5-3 12 1 4-3 10 2 6-3 18 2 4-3 12 1 4-3 10 2 6-3 18 1 4-3 12 1 4-3 18 0 4-3 18 1 4-3 18 0 4-3 24-1 4-3 15 0 17-5 10 0 16-3 7-3 28-4z"/>
<path fill="#003ce1" d="M606 32l-31 47-70 95-58 71-63 69-58 56-58 49-56 41-7 3-24 16-3-1-3 3-39 21 4 6 17-9 5 7 17-9 4 7 18-10 5 7 17-10 5 7 17-11 4 8 12-8 4 8 18-12 4 8 12-8 4 7 12-8 4 8 12-8 4 7 18-12 4 7 12-8 5 7 11-8 5 7 6-4 4 7 12-9 4 8 2-2 2 1-3 4 2 2-25 36-35 44-13 14-39 35-24 16-5 0-17 9 5 2 5-2 5 2 5-2 5 2 5-2 6 2 5-2 5 2 5-2 5 2 7-2 10 4 5-2 5 2 5-2 6 2 5-3 4 2 7-2 10 4 5-2 6 2 4-3 6 2 5-3 4 2 7-2 11 4 4-3 6 2 5-3 11 4 4-3 5 2 6-3 6 2 4-3 12 4 4-3 6 2 4-3 3 0 9 3 5-3 5 2 5-3 10 3 6-3 12 3 4-3 6 2 4-3 3 0 9 3 5-3 5 1 5-3 10 3 9-3 9 3 4-4 12 3 4-3 12 2 4-3 3 0 9 3 5-4 5 2 5-4 11 3 5-4 12 2 4-3 18 3 4-3 12 1 4-3 12 2 4-4 12 2 4-3 9 0 9 2 4-4 12 1 5-3 17 1 4-3 18 1 4-3 18 0 4-3 18 0 4-3 18 0 4-3-77-1-58-11-61-19-52-23-47-25-50-32-31-23 2-1-3-3 6-5 4 7 6-5 4 7 12-10 4 7 6-5 5 7 6-5 4 7 12-10 4 7 6-5 5 7 11-11 5 7 5-5 5 7 6-6 4 7 6-5 5 7 11-11 5 7 5-6 5 7 6-5 4 6 6-5 5 6 11-10 5 6 6-5 4 6 6-5 4 6 6-5 5 6 5-5 5 6 6-5 4 6 5-5 0-2-9-11-2-5-9-7-36-58-48-93-27-59-4-12-14-30-4-13-5-9-17-48-5-9-4-14-5-10-4-15-5-10z"/>
<path fill="#0043dd" d="M606 32l-31 47-70 95-58 71-63 69-58 56-58 49-52 38-3-1-36 23 3 7 18-10 5 7 16-11 5 8 17-12 5 8 12-8 4 8 12-8 4 8 18-12 4 7 12-8 4 8 12-9 4 8 12-9 4 8 12-9 5 8 11-9 5 8 11-9 5 8 12-10 4 8 12-9 4 8 2 0-2 4 3 0-13 22-25 36-35 44-26 27-17 15-23 16-2-1-17 10 6 3 5-3 6 3 4-3 5 2 5-2 5 2 7-2 9 4 5-2 6 2 6-2 5 2 4-3 5 2 7-2 9 4 6-3 6 3 4-3 6 2 4-3 6 2 6-3 10 5 5-3 6 2 4-3 6 2 4-3 11 4 6-3 5 2 5-3 12 4 4-3 6 2 4-4 11 4 5-3 6 2 5-3 11 4 5-4 6 2 4-3 11 3 5-3 12 3 4-3 6 2 5-4 10 4 6-4 9 3 7-3 12 3 4-4 6 2 4-4 10 3 7-3 11 3 5-4 11 3 5-4 11 3 5-4 12 3 4-4 12 2 4-3 12 2 4-4 12 2 4-3 18 2 4-3 12 1 5-3 11 1 5-3 17 1 5-3 17 1 5-3 17 1 5-3-38-4-10 1-35-6-33-10-8-1-47-17-61-29-10-7-25-13-61-41-29-23 2-1-2-3 6-6 5 7 6-5 4 8 12-11 4 8 6-6 5 8 11-11 5 8 5-6 5 8 6-6 4 8 12-11 4 7 6-5 5 7 11-11 5 8 6-6 4 7 6-5 4 7 6-6 5 7 11-11 5 7 6-5 4 7 6-6 4 7 6-6 5 7 11-11 5 7 6-6 4 7 6-6 4 7 6-6 5 7 5-5-14-22-3-1-6-8-20-33-18-33-39-79-36-82-4-13-5-9-17-48-5-9-4-14-5-10-4-15-5-10z"/>
<path fill="#004ada" d="M606 32l-31 47-70 95-15 17-12 17-60 70-51 53-58 54-64 51-3-1-30 22 4 7 16-11 5 8 12-8 4 8 18-13 4 8 12-8 4 8 12-9 4 8 12-9 4 8 12-9 5 9 11-10 5 8 11-9 5 8 11-9 5 8 12-10 4 8 12-9 4 8 12-10 4 8 6-5 1 1-2 5 2 2-7 10-15 28-27 39-35 44-26 27-17 15-3 1-6 6-5 3-4 0-10 7 6 3 5-3 10 5 5-3 6 3 5-3 5 3 5-3 6 2 5-3 5 3 6-3 10 5 5-3 4 2 6-3 6 2 5-3 11 5 4-3 6 2 5-3 5 2 5-3 12 4 4-3 6 2 4-3 6 2 6-3 10 4 5-3 6 2 4-4 11 5 5-4 6 2 5-3 11 4 6-4 10 5 5-4 6 2 4-4 11 4 5-4 6 2 5-3 9 3 7-3 9 3 10-3 8 3 5-4 6 2 4-4 12 4 4-4 12 3 4-4 12 3 5-4 11 3 5-4 11 3 5-4 12 3 4-4 12 3 4-4 12 2 4-4 12 3 4-4 12 2 4-4 18 3 4-4 12 2 5-4 17 2 5-3-33-6-3 2-24-5-41-12-49-19-47-23-10-7-33-18-53-36-43-34 2-1-2-3 11-11 5 8 12-11 4 8 6-5 4 8 12-11 4 8 6-6 5 8 11-11 5 8 6-6 4 8 6-6 4 8 12-11 5 7 5-5 5 7 6-6 4 8 12-11 4 7 6-6 5 8 5-6 5 7 12-11 4 7 6-6 4 8 6-6 5 7 5-6 5 7 6-5 4 7 12-12 4 7 5-5-2-6-7-10-4-2-25-42-48-96-36-82-4-13-5-9-17-48-5-9-4-14-5-10-4-15-5-10z"/>
<path fill="#0051d6" d="M606 32l-31 47-70 95-15 17-12 17-60 70-34 36-58 56-52 44-3-1-30 23 3 8 18-12 4 8 12-9 4 8 12-8 4 8 12-9 4 8 12-9 5 8 11-9 5 8 11-9 5 8 12-10 4 8 12-9 4 8 12-10 4 8 12-9 4 8 12-10 5 8 5-5 3 4-1 3 2 1-17 28-15 28-36 51-26 32-26 27-17 15-5 0-6 6-8 5 6 3 5-3 5 3 4-3 6 2 5-3 6 3 5-4 11 6 4-3 6 2 4-3 6 3 6-4 9 5 6-3 6 3 4-4 6 3 5-4 11 5 5-3 5 2 5-4 6 3 4-4 11 5 5-3 6 2 5-4 10 5 6-4 6 3 5-4 11 5 4-4 6 2 4-4 12 5 5-4 5 2 5-4 11 4 6-4 11 5 4-5 6 3 4-5 11 5 6-4 11 4 5-5 6 2 4-4 11 4 5-4 12 4 4-5 12 4 4-4 12 3 5-4 11 3 5-4 11 3 5-4 11 3 5-4 12 3 4-4 12 2 5-4 11 3 4-4 12 2 4-4 18 3 4-4-18-3-13-4-6 1-34-10-49-19-47-23-10-7-33-18-53-36-41-32-22-19 0-3-8-7 4-4 4 8 12-11 5 9 5-6 5 8 12-11 4 8 6-5 4 8 12-11 4 8 6-6 5 8 11-11 5 8 6-6 4 8 12-11 4 8 6-6 5 8 5-6 5 8 12-12 4 8 6-6 4 8 6-6 5 8 11-12 5 8 6-6 4 8 6-6 4 7 12-12 5 8 5-6 5 7 6-6 4 8 6-6 4 7 5-5-2-6-11-18-4-1-21-38-30-60-27-59-4-12-14-30-4-13-5-9-17-48-5-9z"/>
<path fill="#0059d3" d="M606 32l-31 47-70 95-15 17-12 17-60 70-34 36-46 45-41 36-3-1-24 20 3 8 12-8 4 8 12-9 5 8 11-9 5 9 11-10 5 8 11-9 5 8 12-10 4 8 12-9 5 8 11-10 4 8 12-9 4 8 6-5 5 9 11-11 5 9 12-11 4 7-1 3 2 1-21 38-5 6-6 13-36 54-35 44-35 35-3-1-11 9 12 6 4-3 6 3 5-4 5 3 5-4 6 3 5-3 10 5 5-3 6 3 5-4 6 3 5-4 11 5 4-3 6 2 4-4 6 3 5-4 11 6 5-4 6 2 4-4 12 6 4-4 6 2 5-4 10 5 6-4 6 3 4-5 12 6 4-5 6 3 5-4 11 4 5-4 5 3 6-5 10 5 5-4 12 4 4-4 6 2 4-4 11 4 6-4 10 4 7-4 10 4 5-5 6 3 4-5 11 4 5-4 12 3 4-4 12 4 4-5 12 4 5-5 11 4 6-5 10 4 5-5 12 3 4-4 3 0 9 3 4-5 12 3 4-4-26-8-4 2-47-17-37-17-47-25-50-32-35-25-57-47-14-14 2-1-3-3 8-8 5 9 11-11 5 8 5-5 5 8 12-11 4 8 6-6 5 8 11-11 5 9 5-6 5 8 11-11 5 8 6-6 4 8 12-11 4 8 6-6 5 8 11-12 5 8 6-5 4 8 6-6 4 8 12-12 5 8 5-6 5 8 6-6 4 7 12-12 4 8 6-6 5 8 5-6 5 7 6-6 4 8 11-11-9-18-4-1-42-82-27-59-4-12-14-30-4-13-5-9-17-48-5-9z"/>
<path fill="#0060cf" d="M606 32l-16 23-3 7-67 92-42 54-24 27-7 10-26 28-3 5-51 53-41 39-12 10-1-2-20 17 4 9 11-10 5 9 11-10 5 9 12-10 4 8 12-9 5 8 11-10 4 8 12-9 4 8 6-5 5 9 11-11 5 9 11-10 5 8 12-11 4 8 6-4 4 8 8-7 1 1-3 6 2 2-11 21-40 69-25 36-35 44-26 27-3-1-11 10 6 3 5-4 11 6 5-3 5 3 5-4 6 3 5-4 11 6 4-4 6 3 5-4 5 3 6-4 11 6 4-5 6 3 4-4 6 3 5-4 11 6 5-5 6 3 5-4 11 5 4-4 6 3 5-5 11 6 5-5 5 3 5-4 12 5 4-4 6 2 4-4 12 5 5-5 11 5 5-4 5 2 5-4 11 4 6-4 11 5 4-5 6 2 4-4 12 4 5-5 11 5 6-5 10 5 5-5 6 2 4-5 11 4 5-4 12 4 4-5 12 4 5-5 11 4 6-5 10 4 5-5 11 3 5-5-7-1-13-5-4 1-44-17-47-23-10-7-33-18-53-36-41-32-59-53 3 0-8-8 4-4 5 8 11-10 5 9 5-6 5 9 12-12 5 8 11-10 4 8 6-6 5 8 11-11 5 9 5-6 5 9 12-12 4 8 6-6 5 8 11-11 4 8 6-6 5 9 11-12 5 8 6-6 4 8 6-6 5 8 11-12 5 9 5-7 5 9 6-7 5 8 11-12 4 8 6-6 5 8 5-6 5 8 12-13 4 8 5-5-9-18-3-1-4-6-30-60-27-59-4-12-14-30-4-13-5-9-17-48-5-9z"/>
<path fill="#0067cc" d="M328 597l6 3 5-4 11 7 5-5 5 4 5-5 6 4 4-5 12 7 4-5 6 4 5-5 5 3 6-4 11 6 4-4 6 3 5-5 11 6 4-4 6 3 5-5 6 3 4-4 12 6 4-5 6 3 4-5 12 6 5-5 5 3 6-5 11 6 5-5 11 6 4-5 6 3 4-5 12 5 5-5 5 3 5-5 12 5 4-5 11 5 6-5 11 5 4-5 6 3 5-5 11 4 6-5 10 5 5-5 11 4 6-5 11 5 4-5 12 4 4-5 12 4 4-5 12 4 4-5-21-7-5-3-4 1-6-2-9-5-5-1-47-23-10-7-33-18-53-36-41-32-62-56-31 57-5 6-6 13-36 54-35 44-17 18-3-1zM606 32l-16 23-3 7-30 40-5 9-74 97-60 70-34 36-46 45-3-1-24 22 3 8 12-9 5 8 11-9 5 8 11-10 5 9 11-10 5 9 11-11 5 9 11-11 5 10 11-12 5 10 6-6 5 8 11-10 5 8 11-11 5 10 11-12 5 9 5-6 5 9 12-11 4 8 6-5 5 8 11-11 5 9 11-12 5 9 5-6 5 8 12-12 4 8 6-5 4 8 12-11 4 8 6-6 5 9 6-6 4 8 12-12 4 8 6-6 5 9 11-13 5 9 5-6 5 8 6-6 4 8 12-12 4 8 6-6 5 8 6-6 4 8 12-13 4 8 5-5-9-20-4-2-51-106-4-12-14-30-4-13-5-9-17-48-5-9z"/>
<path fill="#006ec8" d="M337 588l6 4 4-5 12 7 4-4 6 3 6-4 5 3 4-5 12 7 4-5 6 4 5-5 11 7 5-5 5 3 5-5 6 4 4-5 12 6 4-5 6 4 6-5 10 6 5-5 6 3 4-5 12 6 4-5 6 3 5-5 11 6 5-5 5 3 5-5 12 6 4-5 12 5 4-5 6 3 5-5 11 5 5-5 11 6 5-5 6 2 4-5 11 5 5-5 12 5 5-5 11 5 4-6 6 3 5-5 11 4 6-5 11 5 4-6 11 5 5-5-20-9-7 0-47-23-10-7-33-18-53-36-41-32-62-56-31 57-5 6-6 13-29 44-42 54-9 9-2-1zM606 32l-16 23-3 7-30 40-5 9-74 97-60 70-34 36-29 28-2-1-19 18 3 9 12-10 5 9 11-11 5 10 11-11 5 9 6-6 4 9 12-11 5 9 11-11 5 9 11-11 4 9 6-5 5 9 11-12 5 10 12-12 4 8 6-5 5 8 11-11 5 9 11-11 5 9 5-6 5 9 12-12 4 8 6-6 4 9 12-12 4 8 6-5 5 9 11-13 5 9 6-6 5 8 11-12 4 8 6-5 5 9 5-7 5 9 12-13 4 8 6-5 4 8 12-13 4 8 6-5 5 8 6-6 4 8 12-13 4 8 6-6-10-19-4-2-42-89-4-12-14-30-4-13-5-9-17-48-5-9z"/>
<path fill="#0075c5" d="M346 579l12 7 4-4 6 3 5-4 5 3 5-5 11 7 5-5 6 4 4-5 6 3 4-5 12 7 5-5 5 4 5-5 12 6 4-5 6 4 4-6 12 7 4-5 6 3 5-5 11 6 5-5 6 3 4-5 12 6 4-5 6 3 5-5 11 6 5-5 6 3 5-6 11 6 5-5 11 6 4-6 6 3 5-5 11 5 5-5 10 5 6-5 12 5 4-5 6 2 4-5 11 5 5-5 12 5 5-6 10 5 6-5-21-10-1 2-35-17-10-7-25-13-38-25-64-48-62-56-53 94-42 58-22 26-3 0zM606 32l-16 23-3 7-30 40-5 9-74 97-60 70-46 48-1-2-20 19 4 9 12-11 5 9 11-11 5 9 11-11 4 9 6-5 5 10 11-12 5 10 11-12 5 9 11-12 5 10 6-6 4 8 12-11 5 9 11-11 4 8 6-5 5 9 11-12 5 9 6-6 4 9 12-12 4 8 6-5 5 9 11-12 5 9 6-6 5 8 11-12 4 8 6-5 5 9 11-13 5 9 5-7 5 9 12-13 4 8 6-5 4 8 6-6 5 9 11-13 5 9 6-7 4 8 6-6 4 8 12-12-5-10-4-2-11-22-45-101-4-13-5-9-8-24-5-10-4-14-5-9-4-14-5-10-4-15-5-10z"/>
<path fill="#007cc1" d="M350 575l6 3 5-5 6 4 4-5 6 4 5-5 11 7 5-5 5 3 5-5 6 4 5-5 11 7 4-5 6 3 5-5 11 7 5-5 5 3 6-5 11 7 4-6 6 4 4-6 12 7 5-5 5 3 5-6 11 7 5-5 6 3 4-6 12 7 4-6 6 3 5-5 11 6 5-6 11 6 5-5 6 3 4-6 12 6 4-6 12 6 5-6 11 6 5-6 5 3 5-5 12 5 5-6 11 6 4-6-20-10-3 1-39-21-73-48-41-32-62-56-53 94-51 69-5 5-2 0zM606 32l-16 23-3 7-30 40-5 9-74 97-60 70-29 30-1-2-19 20 3 8 3-1 9-9 5 9 11-11 5 10 5-6 5 9 12-12 4 9 12-11 5 9 11-11 4 8 6-5 5 10 11-12 5 9 11-12 5 9 6-6 4 9 12-12 4 9 6-6 5 10 11-13 5 10 6-7 5 9 11-12 4 8 6-5 5 8 11-12 5 9 5-6 5 9 12-13 4 8 6-5 5 8 11-13 4 9 6-6 5 9 6-7 5 9 11-13 4 8 6-6 4 8 6-5 5 9 5-8-9-18-3-1-48-106-4-13-5-9-8-24-5-10-4-14-5-9-4-14-5-10-4-15-5-10z"/>
<path fill="#0083bd" d="M359 565l6 3 5-5 6 4 4-5 6 4 4-6 12 8 4-6 6 4 5-5 6 4 4-6 12 7 4-5 6 4 4-6 12 7 5-5 5 3 6-5 11 7 4-6 6 4 4-6 12 7 4-6 6 4 5-6 11 7 5-6 6 4 4-6 12 6 5-5 11 6 4-6 6 4 5-6 11 6 5-6 12 6 4-5 6 3 4-6 12 6 4-6 12 6 5-6 11 6 5-6-21-11-1 2-10-7-25-13-61-41-41-32-62-56-51 91-36 51zM606 32l-16 23-3 7-30 40-5 9-70 92-64 75-11 11-1-2-20 21 4 10 11-12 5 10 12-13 5 10 11-12 4 9 6-5 5 10 11-13 5 10 11-12 5 10 6-7 5 9 11-12 5 9 11-12 4 9 6-5 5 10 11-13 5 9 6-6 4 9 12-13 4 9 6-6 4 9 12-12 5 9 5-6 5 9 12-13 4 8 6-5 4 8 12-12 4 8 6-6 5 10 6-7 5 8 11-13 4 9 6-6 5 9 5-7 5 9 5-5-9-21-3-1-39-87-4-13-5-9-8-24-5-10-4-14-5-9-4-14-5-10-4-15-5-10z"/>
<path fill="#008aba" d="M368 554l6 4 5-6 6 4 4-5 12 8 4-6 6 4 4-6 6 4 5-5 11 7 5-5 6 3 4-5 12 7 4-5 6 3 5-6 11 8 5-6 6 4 5-6 11 7 4-6 6 4 5-6 11 7 5-6 11 7 5-6 5 3 5-6 12 7 4-6 6 3 4-6 12 7 5-6 11 6 5-6 5 4 5-7 12 7 4-6 12 6 4-6-20-12-3 1-16-9-61-41-41-32-62-56-51 91-36 51-4 4-2 0zM606 32l-31 47-70 95-58 71-23 25-1-2-7 9-12 12 3 10 12-12 5 9 11-11 5 10 5-6 5 10 12-13 5 9 11-12 4 9 6-5 4 9 12-12 5 10 5-7 5 10 12-13 5 9 11-12 4 9 6-6 4 9 12-12 5 10 5-7 5 10 12-14 4 9 6-6 4 9 12-13 4 9 6-6 5 10 11-14 5 10 6-7 4 8 6-6 4 9 12-13 5 9 5-7 5 10 5-6-9-22-3-1-30-67-4-13-5-9-17-48-5-9-4-14-5-10-4-15-5-10z"/>
<path fill="#0091b6" d="M377 543l6 4 5-6 11 8 5-5 6 4 4-6 12 8 4-6 6 4 4-6 12 8 5-6 5 4 5-6 6 4 4-6 12 7 4-6 6 4 5-6 11 7 5-6 11 8 5-6 6 3 4-6 12 7 4-6 6 4 5-6 11 7 5-7 11 7 5-6 6 4 4-7 12 7 4-6 12 6 4-6 6 3 5-6-15-9-1 2-6-3-61-41-41-32-62-56-51 91-35 49-3 0zM606 32l-31 47-70 95-58 71-11 12-1-2-14 15 4 10 6-6 5 10 11-12 5 9 11-12 4 9 6-5 5 10 11-13 5 10 11-13 5 10 6-7 4 10 12-13 4 9 6-5 5 10 11-14 5 10 11-13 5 10 6-7 5 9 11-13 4 9 6-6 5 10 5-7 5 10 12-14 4 9 6-6 4 9 12-13 4 8 6-6 5 10 11-14 5 10 5-9-5-11-3-1-7-14-4-12-14-30-4-13-5-9-17-48-5-9-4-14-5-10-4-15-5-10z"/>
<path fill="#0098b3" d="M382 537l6 4 4-6 6 4 4-5 6 4 5-6 11 8 5-6 6 4 4-6 12 8 4-6 6 4 5-6 11 8 5-6 6 3 4-6 12 8 4-6 6 4 4-7 12 8 5-6 5 3 5-6 11 8 5-7 12 8 4-7 6 4 4-7 12 8 5-7 5 4 5-7 11 7 6-6 11 7 4-7-18-11-6-1-59-41-57-47-34-32-51 91-25 36-4 1zM606 32l-31 47-70 95-52 63-1-2-17 19-2 5 3 8 12-13 5 10 11-12 5 10 6-6 4 9 12-12 4 9 6-6 4 10 12-13 5 10 11-13 5 10 6-7 4 10 12-13 4 9 6-6 4 10 12-14 5 10 5-6 5 10 12-14 4 9 6-6 4 9 12-13 4 9 6-6 5 10 11-15 5 10 6-7 4 9 6-6 4 9 6-7-10-22-2 0-17-37-4-13-5-9-17-48-5-9-4-14-5-10-4-15-5-10z"/>
<path fill="#009faf" d="M391 525l6 4 4-6 12 9 4-6 6 4 4-6 12 8 5-6 5 4 5-6 6 4 4-7 12 9 4-7 6 4 5-6 11 8 5-7 6 4 4-6 12 8 4-7 12 8 4-6 6 3 5-6 11 8 5-7 6 4 4-7 12 8 4-7 12 7 4-6 6 3 5-6-15-10-1 2-50-35-57-47-34-32-51 91-22 31-3 0zM606 32l-31 47-70 95-40 49-1-2-12 13-2 5 4 8 6-6 5 10 11-13 5 10 11-13 5 10 5-6 5 10 11-13 5 10 6-7 5 10 11-13 5 9 11-13 4 10 6-6 5 10 11-14 5 10 6-7 4 10 12-14 4 10 6-7 5 10 5-7 5 10 12-14 4 9 6-6 4 9 12-14 5 10 5-7-5-12-2 0-4-6-13-34-5-9-17-48-5-9-4-14-5-10-4-15-5-10z"/>
<path fill="#00a6ac" d="M395 519l6 4 5-6 5 4 5-6 6 4 4-6 12 8 4-6 6 4 5-6 11 8 5-6 5 4 5-7 12 9 4-7 6 4 4-6 12 8 5-7 5 4 5-6 11 8 5-7 12 8 4-7 6 4 4-7 12 8 5-7 5 4 5-7 11 8 5-7-15-10-1 2-38-27-57-47-34-32-51 91-13 18-3 0zM606 32l-31 47-70 95-15 17-13 18-1-2-12 13-2 5 4 8 11-13 5 10 6-6 4 10 12-13 4 10 6-6 4 10 12-14 5 10 11-13 5 10 6-7 4 10 12-13 4 9 6-6 4 10 12-14 5 10 5-7 5 10 12-14 4 10 6-7 4 10 12-14 4 10 6-7 5 10 6-7 4 9 6-6-10-23-2 0-4-6-4-13-5-9-17-48-5-9-4-14-5-10-4-15-5-10z"/>
<path fill="#00aea8" d="M404 506l6 4 4-6 12 9 5-7 5 5 5-7 12 9 4-7 6 5 4-7 12 8 4-6 6 4 5-7 11 9 5-7 6 4 4-7 12 9 4-7 6 4 5-7 11 8 5-7 6 4 4-7 12 8 4-7 12 8 4-7-14-10-1 2-15-10-41-32-62-56-51 91-7 10-4 1zM606 32l-16 23-3 7-86 117-13 15-3 0-9 12-2 5 3 8 12-13 5 10 11-13 5 10 5-6 5 10 11-14 5 10 6-6 4 10 12-14 4 10 6-6 5 10 11-14 5 10 6-7 4 10 12-14 4 10 6-7 5 10 11-14 5 10 5-7 5 10 12-14 4 9 6-6-6-13-3-1-7-16-17-48-5-9-4-14-5-10-4-15-5-10z"/>
<path fill="#00b5a5" d="M409 499l5 5 5-7 6 5 4-7 12 9 4-7 6 5 5-7 11 9 5-7 6 4 4-7 12 9 4-7 6 5 5-7 11 8 5-7 5 5 5-8 12 9 4-7 6 4 4-7 12 8 4-7 12 8 5-7-20-14-4 0-36-28-62-56-31 57-5 6-6 13zM606 32l-16 23-3 7-79 108-2 2-3 0-18 22 0 3 4 8 12-14 4 11 12-14 4 10 6-6 4 10 12-14 5 10 5-6 5 10 12-14 4 10 6-6 4 10 12-14 4 10 6-7 5 10 6-6 5-8 5 10 6-7 4 10 12-14 4 10 6-7 5 10 5-7-10-24-2 0-2-3-14-40-5-9-4-14-5-10-4-15-5-10z"/>
<path fill="#00bca1" d="M418 486l11 9 5-7 6 5 4-7 12 9 4-7 6 4 4-7 12 9 5-7 5 5 5-7 12 9 4-7 6 4 4-7 12 8 4-7 6 5 5-8 11 9 5-7 6 4 4-7-14-11-2 1-26-20-62-56-31 57-5 6-6 13-5 6-2 0zM606 32l-16 23-3 7-30 40-5 9-34 45-3 0-12 16 3 11 6-6 6 10 10-14 5 10 6-6 4 10 12-14 4 10 6-6 5 10 11-14 5 10 6-6 4 10 12-15 4 11 6-7 4 10 12-15 5 11 5-7 5 10 11-15-5-13-3-1-7-17-4-14-5-9z"/>
<path fill="#00c39e" d="M422 479l6 4 4-7 12 10 4-7 6 4 5-7 11 9 5-7 6 5 4-7 12 9 4-8 6 5 5-7 11 9 5-8 6 5 4-8 12 9 4-7 6 4 4-7-13-11-4 0-13-10-62-56-31 57-5 6-4 9-4 2zM606 32l-16 23-3 7-30 40-5 9-23 30-3 0-11 15 3 12 6-7 4 11 12-14 4 10 6-6 5 10 11-14 5 10 6-6 4 10 12-15 4 11 6-7 5 10 11-14 5 10 6-7 5 10 11-14 4 10 6-7-5-13-4-2-6-19-5-9z"/>
<path fill="#00ca9a" d="M427 471l5 5 5-7 6 5 4-8 12 10 4-7 6 4 5-7 11 10 5-8 5 5 5-8 12 10 4-8 6 5 4-8 12 9 5-7 5 4 5-7-15-12-1 2-65-58-31 57-2 2-3 0zM606 32l-16 23-3 7-30 40-5 9-11 14-3 0-12 16 4 12 6-7 4 11 12-15 4 11 6-7 4 11 12-15 5 11 5-7 5 10 12-14 4 10 6-7 4 11 12-15 4 10 6-7 5 11 6-7-5-10-4-14-5-4z"/>
<path fill="#00d197" d="M435 456l12 10 5-7 5 5 5-8 12 10 4-8 6 5 4-7 12 9 4-7 6 4 5-7 11 9 5-8 6 5 4-8-13-11-4 0-18-15-34-32-28 51-4 2zM606 32l-31 47-20 27-5 3-12 16 3 12 6-7 5 11 11-15 5 11 6-7 4 11 12-15 4 11 6-7 5 11 11-16 5 11 5-7 5 11 12-16-6-13-3-1z"/>
<path fill="#00d893" d="M440 448l6 6 4-8 12 10 4-7 6 5 5-8 11 10 5-8 6 5 4-8 12 10 4-8 6 5 5-8-14-12-2 1-8-6-34-32-22 41-3 3-2 0zM606 32l-31 47-11 14-3 0-10 14-1 5 3 9 6-7 4 11 12-15 4 11 6-7 5 11 11-15 5 11 6-7 4 10 12-15 4 11 6-7-5-14-4-2-6-20-5-10z"/>
<path fill="#00df8f" d="M444 441l6 5 5-8 6 5 4-8 12 11 4-8 6 5 4-8 12 10 5-8 5 5 5-8-8-7-4 0-34-32-13 25-3 3-2 0zM606 32l-31 47-5 6-2-1-7 9 4 12 6-7 4 11 12-15 4 11 6-7 4 11 12-16 5 11 5-7 5 11 6-7-5-10-4-15-5-4z"/>
<path fill="#00e68c" d="M453 425l12 10 4-8 6 6 5-9 11 11 5-8 12 10 4-8-14-13-2 1-24-22-10 19-4 2zM606 32l-16 23-3 7-5 6-3 0-12 17 4 12 11-15 5 11 11-16 5 11 6-7 4 11 12-16-6-14-3-1z"/>
<path fill="#00ed88" d="M472 395l-4 8-3 3-2 0-5 11 11 10 5-8 6 5 4-8 12 11 4-9-13-12-2 1zM606 32l-8 13-5 6-3 0-5 10-6 7 3 13 12-16 4 11 6-7 5 11 11-16-5-14-2 0-2-3z"/>
<path fill="#00f485" d="M472 395l-2 3-3 1-5 9 6 6 5-9 11 11 5-8-14-13zM606 32l-1 2-3 0-12 17 4 13 11-16 5 11 6-7-5-13-4-3z"/>
<path fill="#00fb81" d="M471 391l-4 9 6 5 4-8zM607 27l-5 7 3 13 6-8z"/>
</g>
<g clip-path="url(#f3c)"><use href="#f3s" filter="url(#sb)"/></g>
</g>
<g font-size="10" fill="#262626">
<text x="851.5" y="8.4" text-anchor="middle">Function Topology</text>
<text x="718.5" y="169.7" text-anchor="end">0</text>
<text x="718.5" y="147.2" text-anchor="end">1</text>
<text x="718.5" y="124.8" text-anchor="end">2</text>
<text x="718.5" y="102.3" text-anchor="end">3</text>
<text x="718.5" y="79.8" text-anchor="end">4</text>
<text x="718.5" y="57.3" text-anchor="end">5</text>
<text x="829.8" y="229.7" text-anchor="end">-100</text>
<text x="773.9" y="204" text-anchor="end">0</text>
<text x="718" y="178.2" text-anchor="end">100</text>
<text x="837.8" y="230.2">-100</text>
<text x="874.2" y="220.3">-50</text>
<text x="910.6" y="210.4">0</text>
<text x="947.1" y="200.6">50</text>
<text x="983.5" y="190.7">100</text>
<text x="770.9" y="233" text-anchor="middle">x<tspan font-size="7.8" dy="3.0">2</tspan></text>
<text x="903.6" y="234.9" text-anchor="middle">x</text>
<text transform="translate(713.4,103.5) rotate(-90)" text-anchor="middle" xml:space="preserve">F3( x<tspan font-size="7.8" dy="3.0">1</tspan><tspan dy="-3.0"> , x</tspan><tspan font-size="7.8" dy="3.0">2</tspan><tspan dy="-3.0"> )</tspan></text>
<text x="724" y="51">x 10<tspan font-size="7.8" dy="-7.5">4</tspan></text>
</g>
<g font-family="Liberation Serif, Times New Roman, serif" fill="#000" stroke="#000" stroke-width=".5">
<text transform="translate(792.8 296.8) scale(.875 1)" font-size="46" font-style="italic">F</text>
<text transform="translate(815.5 306.5) scale(1.15 1)" font-size="31.3">3</text>
</g>
</g>
<g id="f4">
<path d="M139.4 556.4L27.6 505M27.6 505L27.6 392.7M175.8 546.5L64 495.1M64 495.1L64 382.8M212.2 536.7L100.4 485.2M100.4 485.2L100.4 372.9M248.6 526.8L136.8 475.4M136.8 475.4L136.8 363.1M285 516.9L173.2 465.5M173.2 465.5L173.2 353.2M139.4 556.4L285 516.9M285 516.9L285 404.6M83.5 530.7L229.1 491.2M229.1 491.2L229.1 378.9M27.6 505L173.2 465.5M173.2 465.5L173.2 353.2M27.6 505L173.2 465.5M173.2 465.5L285 516.9M27.6 482.5L173.2 443M173.2 443L285 494.5M27.6 460L173.2 420.6M173.2 420.6L285 472M27.6 437.6L173.2 398.1M173.2 398.1L285 449.6M27.6 415.1L173.2 375.7M173.2 375.7L285 427.1M27.6 392.7L173.2 353.2M173.2 353.2L285 404.6" fill="none" stroke="#e6e6e6" stroke-width="0.7"/>
<g transform="scale(.1)" fill="none" stroke-width="5" opacity="0.5">
<path stroke="#001af2" d="M1546 5155l-112-52 146-39 112 51-146 40"/>
<path stroke="#0033e6" d="M1529 5200l-223-102 291-79 223 102-291 79"/>
<path stroke="#004cd9" d="M1512 5246l-335-154 437-119 335 154-437 119"/>
<path stroke="#0066cc" d="M1495 5291l-447-205 583-158 447 205-583 158"/>
<path stroke="#0080bf" d="M1478 5337l-558-257 728-198 558 257-728 198"/>
<path stroke="#0099b2" d="M1461 5382l-670-308 874-237 670 308-874 237"/>
<path stroke="#00b2a6" d="M1444 5428l-782-360 1020-277 782 360-1020 277"/>
<path stroke="#00cc99" d="M1427 5473l-894-411 1166-316 894 411-1166 316"/>
<path stroke="#00e68c" d="M1411 5519l-1006-463 1310-356 1006 463-1310 356"/>
</g>
<path d="M27.6 505L139.4 556.4L285 516.9" fill="none" stroke="#a8a8a8" stroke-width="0.9"/>
<path d="M27.6 505L27.6 392.7" fill="none" stroke="#a8a8a8" stroke-width="0.9"/>
<path d="M139.4 556.4l-2.9 0.8M83.5 530.7l-2.9 0.8M27.6 505l-2.9 0.8M139.4 556.4l2.7 1.3M175.8 546.5l2.7 1.3M212.2 536.7l2.7 1.3M248.6 526.8l2.7 1.3M285 516.9l2.7 1.3M27.6 505l-2.9 0.8M27.6 482.5l-2.9 0.8M27.6 460l-2.9 0.8M27.6 437.6l-2.9 0.8M27.6 415.1l-2.9 0.8M27.6 392.7l-2.9 0.8" fill="none" stroke="#a8a8a8" stroke-width="0.9"/>
<clipPath id="f4c"><path clip-rule="evenodd" d="M26 183l5 2 6 7 3 1 7 9 3 1 7 8 5 2 6 8 3 1 18 18 3 1 7 8 3 1 7 8 3 1 7 9 5 2 5 7 5 2 4 6 5 3 7 8 3 1 7 9 5 2 6 7 5 3 5 7 3 1 7 8 5 2 5 8 5 2 17 17 3 1 6 8 5 2 6 7 3 1 7 9 3 1 7 8 5 2 4 6 5 3 7 8 3 1 7 9 5 2 5 7 5 2 6 8 3 1 7 8 3 1 7 9 5 2 26 26 5 2 5 7 5 2 6 8 3 1 7 8 5 2 5 8 5 2 6 7 5 3 5 7 3 1 7 8 5 2 6 8 3 1 7 8 3 1 7 9 5 2 4 6 6 3 6 8 3 1 7 8 5 2 5 7 5 2 4 6 5 3 7 8 3 1 7 9 5-7 7-3 3-6 6-1 4-7 6-2 5-7 5-1 4-6 7-3 5-7 5-1 4-7 6-2 5-7 6-1 4-7 6-2 5-7 5-1 4-6 6-3 5-7 6-1 4-7 6-2 5-7 5-1 5-7 6-2 4-7 6-1 3-6 7-3 5-7 6-1 4-7 6-2 5-7 5-1 4-6 6-3 5-7 6-1 4-7 6-2 5-7 5-1 5-7 6-2 4-7 6-1 3-6 7-3 5-7 6-1 4-7 6-2 5-7 5-1 4-6 6-3 5-7 6-1 4-7 6-2 5-7 5-1 5-7 6-2 4-7 6-1 4-7 6-2 5-7 5-1 4-6 7-3 5-7 5-1 4-6 6-3 5-7 6-1 4-7 6-2 5-7 5-1 5-7 6-2 4-7 6-1 4-7 6-2 5-7 5-1 4-6 7-3 5-7 5-1-12-7-47-20-29-15-69-30-16-9-60-26-16-9-60-26-16-9-38-16-38-19-45-20-49 12-9 4-20 4-9 4-32 7-9 4-20 4-3 2-37 9-10 4-72 18-39 12-72 18-9 4-20 4-9 4-32 7-9 4-20 4-21 7-31 7-10 4-8 1-3 2-8 1z"/></clipPath>
<g transform="translate(21,347) scale(0.25)" fill-rule="evenodd">
<g id="f4s">
<path fill="#0003fd" d="M533 646l8 10 7-8-3-2z"/>
<path fill="#000afa" d="M523 637l8 9 8 4 11-2 3-2 3-6 3 0-4-3-16 5-13-6z"/>
<path fill="#0010f7" d="M503 618l7 9 6 3 5 7 17 8 24-6 4-7 6-2 4-6 3-1 0-2-3-1-10 4-30 7-27-13z"/>
<path fill="#0016f4" d="M492 609l8 9 35 16 8-1 3-2 36-9 7-8-3-2-6 1-10 4-35 9-37-17z"/>
<path fill="#001df1" d="M482 599l8 10 44 20 57-15 7-8 2 0 0-2-4-1-13 5-28 6-21 7-46-22z"/>
<path fill="#0023ed" d="M461 580l8 10 6 3 4 6 24 10 30 15 70-19 4-7 6-2 5-7 3 0-4-3-10 4-71 18-5 3-14-8-20-8-25-13-8-3z"/>
<path fill="#0029ea" d="M451 571l8 9 67 31 6 7 4-7 88-23 3-6 3-2-3-2-6 1-13 5-28 6-9 4-20 4-21 7-76-35z"/>
<path fill="#0030e7" d="M441 561l8 10 59 26 21 11 13-3 9-4 20-4 9-4 54-14 5-7 2 0 0-2-4-1-9 4-20 4-21 7-20 4-21 7-18 4-56-25-25-13z"/>
<path fill="#0036e4" d="M430 552l8 9 89 41 8-1 21-7 8-1 3-2 20-4 10-4 47-12 7-8-3-2-6 1-10 4-31 7-10 4-19 4-10 4-8 1-27 8-94-43z"/>
<path fill="#003de1" d="M420 542l8 10 55 24 20 11 23 10 65-17 10-4 31-7 10-4 8-1 4-2 5-7 3 0-4-3-25 8-57 14-9 4-20 4-22 7-18-10-47-20-29-15-8-3z"/>
<path fill="#0043de" d="M400 523l6 9 6 3 6 7 39 19 47 20 20 11 23-7 20-4 9-4 32-7 9-4 20-4 9-4 19-4 4-7 6-2 4-6 3-1 0-2-3-1-51 15-72 18-13 5-15 3-5 3-41-21-65-28-11-7z"/>
<path fill="#0049da" d="M389 514l8 9 8 3 5 4 108 49 6 7 4-7 19-4 9-4 20-4 21-7 8-1 33-10 8-1 3-2 8-1 10-4 18-4 7-8-3-2-6 1-10 4-31 7-13 5-57 14-9 4-20 4-22 7-18-10-56-24-20-11-32-14z"/>
<path fill="#0050d7" d="M379 505l8 9 37 16 20 11 56 24 20 11 23-7 20-4 9-4 31-7 10-4 20-4 9-4 54-14 4-7 3 0-4-3-12 3-9 4-20 4-9 4-20 4-21 7-20 4-21 7-8 1-21 7-18 4-52-23-20-11-56-24-6-4z"/>
<path fill="#0056d4" d="M369 495l7 9 9 5 60 26 20 11 54 24 19-4 10-4 37-9 3-2 20-4 21-7 20-4 9-4 20-4 9-4 19-4 3-6 3-2-3-2-15 5-20 4-21 7-31 7-10 4-60 15-33 10-50-24-47-20-29-15-18-8z"/>
<path fill="#005cd1" d="M348 476l18 19 152 70 198-54 5-7 6-1 3-6 3-2-3-2-6 1-13 5-28 6-9 4-20 4-50 15-20 4-21 7-8 1-39 11-43-19-38-19-38-16-38-19-8-3z"/>
<path fill="#0063ce" d="M338 467l8 9 169 78 48-12 21-7 20-4 50-15 20-4 9-4 32-7 9-4 11-2 7-8 2 0 0-2-4-1-50 15-20 4-21 7-31 7-10 4-60 15-33 10-59-28-38-16-38-19-36-16z"/>
<path fill="#0069ca" d="M327 457l6 8 6 4 60 26 16 9 38 16 61 29 24-6 10-4 31-7 10-4 19-4 10-4 31-7 21-7 20-4 50-15 7-1 7-8-3-2-6 1-10 4-72 18-13 5-16 3-21 7-20 4-9 4-61 15-9 4-6-4-60-26-16-9-69-30-16-9-17-7z"/>
<path fill="#0070c7" d="M307 438l6 8 5 3 7 8 19 8 16 9 69 30 16 9 60 26 8 5 10-4 20-4 21-7 20-4 9-4 61-15 9-4 20-4 21-7 49-12 4-2 5-7 6-1 3-6 3-2-3-2-6 1-9 4-20 4-21 7-60 15-10 4-8 1-48 14-16 3-21 7-8 1-10 4-21 5-2 3-2-3-26-13-69-30-16-9-60-26-25-13z"/>
<path fill="#0076c4" d="M297 429l7 9 91 41 16 9 69 30 26 13 5 7 5-7 47-12 10-4 31-7 10-4 31-7 10-4 37-9 3-2 20-4 21-7 20-4 9-4 11-2 7-8 2 0 0-2-3-1-37 11-16 3-39 12-31 7-13 5-28 6-9 4-20 4-13 5-57 14-7 3-2 3-6-6-60-26-16-9-60-26-16-9-49-22zM588 356l-1-2-8-3-4 1-2 3-2-3-3-1-7 1-48 14-16 3-21 7-14 3-2 5 1 2 9 4 6 1 28-7 9-4 31-7 10-4 8-1 10-3 2-2 2 1 11-4z"/>
<path fill="#007cc1" d="M286 419l8 10 131 59 16 9 60 26 9 10 4-6 5-3 20-4 9-4 32-7 9-4 20-4 9-4 32-7 9-4 20-4 3-2 37-9 10-4 59-15 7-8-3-2-6 1-10 4-72 18-9 4-20 4-13 5-16 3-21 7-20 4-21 7-8 1-21 7-20 4-27 8-43-19-16-9-60-26-16-9-60-26-16-9-8-3zM607 352l-1-2-22-11-10-3-21 7-20 4-9 4-81 21-1 4 1 2 21 8 3-1-4-2 5-3 49-12 3-2 8-1 33-10 7-1 3 6-3 4 5 1 3-1 4-5 7 2 19-5zM574 360l4-6 7 3-9 4z"/>
<path fill="#0083be" d="M276 410l8 9 26 13 60 26 16 9 60 26 16 9 45 20 48-12 10-4 37-9 3-2 20-4 21-7 20-4 9-4 20-4 9-4 32-7 9-4 54-14 4-7 3 0-4-3-12 3-9 4-20 4-50 15-72 18-10 4-60 15-21 7-20 4-21 7-28-14-60-26-16-9-60-26-16-9-45-20zM624 346l-3-3-36-16-11-3-37 11-20 4-13 5-16 3-21 7-20 4-13 5-7 1-1 4 2 3 16 7 6-1-5-2 7-3 72-18 9-4 20-4 21-7 7 2 22 11 0 2-5 1 3 1 9-1 13-4z"/>
<path fill="#0089ba" d="M266 400l8 10 50 22 16 9 60 26 16 9 60 26 30 15 13-3 9-4 20-4 21-7 60-15 10-4 31-7 21-7 20-4 50-15 20-4 9-4 19-4 3-6 3-2-3-2-15 5-20 4-21 7-31 7-39 12-31 7-10 4-31 7-13 5-16 3-21 7-20 4-9 4-30 7-65-29-16-9-60-26-16-9-60-26-16-9zM643 342l-1-2-17-7-16-9-32-13-33 10-60 15-10 4-60 15-4 2-1 4 1 2 15 7 9 0-5-3 1-1 8-1 9-4 20-4 21-7 20-4 9-4 20-4 37-11 8 2 38 17 1 2-3 2 3 1 21-5z"/>
<path fill="#008fb7" d="M245 382l18 18 22 11 60 26 16 9 60 26 16 9 67 30 31-7 9-4 20-4 21-7 20-4 9-4 20-4 21-7 20-4 3-2 37-9 10-4 8-1 33-10 8-1 3-2 42-11 5-7 6-1 3-6 3-2-3-2-6 1-21 7-20 4-9 4-61 15-50 15-31 7-10 4-31 7-10 4-19 4-10 4-31 7-22 7-27-14-60-26-16-9-60-26-16-9-47-20-24-12zM679 332l-1-2-37-16-16-9-40-18-6-1-15 5-31 7-10 4-19 4-10 4-31 7-21 7-20 4-13 5-16 3-16 5-1 4 1 2 30 15 6 1 3-1-4-2 2-2 60-15 10-4 60-15 33-10 62 28 0 2-4 1 8 1 35-10z"/>
<path fill="#0096b4" d="M235 372l8 9 17 9 136 61 29 15 47 20 29 15 14-3 9-4 31-7 10-4 19-4 10-4 31-7 10-4 31-7 10-4 37-9 3-2 20-4 21-7 20-4 9-4 54-14 5-7 2 0 0-2-4-1-21 7-31 7-39 12-31 7-10 4-31 7-13 5-16 3-10 4-31 7-13 5-28 6-9 4-20 4-9 4-30 7-52-23-20-11-69-30-16-9-60-26-16-9-27-12zM696 327l-1-2-15-8-69-30-16-9-14-5-25 8-28 6-9 4-60 15-10 4-72 18-16 5-1 5 1 2 18 8 4-1-4-3 14-5 20-4 9-4 20-4 21-7 20-4 3-2 8-1 10-4 8-1 3-2 8-1 10-4 8-1 38-11 3 0 40 18 16 9 38 17-5 2 9 1 15-5z"/>
<path fill="#009cb1" d="M225 363l6 8 5 3 29 12 16 9 60 26 16 9 69 30 20 11 54 24 31-7 9-4 20-4 9-4 32-7 9-4 20-4 21-7 20-4 9-4 20-4 21-7 31-7 39-12 59-15 7-8-4-2-17 4-39 12-72 18-9 4-20 4-13 5-16 3-21 7-20 4-21 7-8 1-21 7-20 4-56 16-30-13-20-11-56-24-20-11-56-24-20-11-67-30zM715 322l-1-2-48-21-16-9-58-26-11-3-26 8-31 7-21 7-20 4-13 5-28 6-9 4-20 4-13 5-57 15-1 4 1 2 20 8 4-1-4-2 1-2 85-22 10-4 60-15 9-4 32-7 21-7 98 44 13 7 0 2-4 1 5 2 21-6z"/>
<path fill="#00a3ae" d="M204 344l19 19 16 8 56 24 20 11 56 24 20 11 56 24 20 11 32 14 36-9 10-4 8-1 3-2 20-4 10-4 37-9 3-2 20-4 21-7 20-4 9-4 20-4 9-4 32-7 9-4 20-4 3-2 37-9 10-4 20-4 4-2 5-7 6-1 3-6 3-2-3-2-56 16-20 4-21 7-60 15-10 4-72 18-13 5-16 3-13 5-68 17-10 4-14 3-4 3-5-5-132-59-11-7-65-28-11-7-63-28zM752 312l-1-2-69-30-16-9-60-26-12-7-7 0-2 4-2-4-4-1-19 6-16 3-13 5-28 6-9 4-20 4-13 5-28 6-9 4-31 7-39 12-31 7-12 4-1 4 2 3 19 10 12 5 6-1-4-2 3-2 56-14 9-4 20-4 9-4 32-7 9-4 20-4 21-7 31-7 26-8 8 2 58 26 16 9 42 18 7 4-5 2 5 2 39-11z"/>
<path fill="#00a9ab" d="M194 334l6 9 5 3 65 28 11 7 65 28 11 7 132 59 9 10 3-6 6-3 8-1 21-7 20-4 9-4 32-7 9-4 20-4 9-4 20-4 21-7 20-4 3-2 37-9 10-4 31-7 10-4 8-1 3-2 20-4 10-4 53-14 5-7 2 0 0-2-4-1-21 7-72 18-13 5-57 14-9 4-61 15-9 4-20 4-21 7-31 7-10 4-8 1-56 16-30-13-20-11-56-24-20-11-56-24-20-11-65-28-11-7-18-8zM770 310l-1-4-32-14-16-9-133-60-8 1-50 15-31 7-25 8-16 3-13 5-16 3-21 7-20 4-13 5-28 6-9 4-20 4-9 4-14 3-2 3 1 4 19 8 3-1-3-3 10-4 31-7 39-12 72-18 9-4 20-4 9-4 32-7 9-4 20-4 15-5 2 1 4 9 4-9 2-1 12 7 60 26 16 9 69 30 0 2-5 1 7 2 19-5z"/>
<path fill="#00afa7" d="M183 325l8 9 24 10 11 7 65 28 20 11 56 24 20 11 56 24 20 11 32 14 36-9 10-4 8-1 3-2 8-1 10-4 31-7 21-7 20-4 9-4 20-4 21-7 20-4 9-4 61-15 9-4 20-4 21-7 49-12 3-2 7-1 7-8-4-2-17 4-42 13-28 6-9 4-61 15-9 4-20 4-21 7-31 7-10 4-60 15-21 7-20 4-13 5-16 3-22 7-14-8-69-30-20-11-56-24-20-11-56-24-20-11-50-22zM787 305l-2-5-22-11-56-24-20-11-56-24-20-11-21-9-66 17-10 4-20 4-9 4-20 4-21 7-31 7-39 12-31 7-21 7-20 4-26 8-1 2 1 4 15 7 6 1 3-1-4-2 2-2 11-2 9-4 20-4 9-4 32-7 9-4 20-4 21-7 20-4 9-4 20-4 21-7 8-1 33-10 8-1 3-2 8-1 10-4 8-1 3-2 8-1 54 24 16 9 60 26 16 9 29 12 4 3-4 2 6 1 17-5z"/>
<path fill="#00b6a4" d="M173 315l8 10 55 24 20 11 56 24 20 11 56 24 20 11 69 30 16 9 23-7 20-4 9-4 31-7 10-4 31-7 21-7 8-1 10-4 31-7 21-7 20-4 9-4 61-15 9-4 32-7 9-4 20-4 9-4 20-4 5-2 4-7 3 0-4-3-12 3-9 4-20 4-21 7-31 7-39 12-31 7-10 4-31 7-13 5-16 3-10 4-31 7-13 5-28 6-9 4-20 4-9 4-20 4-21 7-18 4-52-23-38-19-38-16-29-15-47-20-29-15-56-24-20-11-8-3zM805 300l-1-5-51-22-11-7-65-28-11-7-75-33-31 7-10 4-31 7-50 15-20 4-13 5-57 14-13 5-68 17-10 4-26 6-4 3 2 5 13 6 8 1 1-1-3-1 0-2 14-3 9-4 20-4 21-7 31-7 39-12 31-7 21-7 20-4 9-4 20-4 10-4 66-17 38 19 56 24 20 11 56 24 22 11 2 2-4 2 11 0 13-4z"/>
<path fill="#00bca1" d="M152 296l6 8 7 4 6 7 30 15 56 24 29 15 47 20 29 15 38 16 38 19 54 24 60-15 9-4 20-4 9-4 32-7 9-4 20-4 21-7 20-4 9-4 72-18 10-4 60-15 21-7 20-4 9-4 16-3 4-2 3-6 6-2 4-6 3-1 0-2-3-1-33 10-20 4-13 5-28 6-9 4-20 4-13 5-16 3-21 7-60 15-10 4-72 18-39 12-31 7-13 5-28 6-7 3-2 3-4-4-11-6-60-26-16-9-60-26-16-9-69-30-16-9-60-26-16-9-8-3zM842 290l-1-4-7-4-47-20-29-15-47-20-29-15-38-16-46-22-4 1-2 3-2-3-5-1-26 8-20 4-42 13-28 6-9 4-20 4-21 7-20 4-9 4-20 4-21 7-60 15-10 4-31 7-20 6-2 3 1 4 34 16 4-1-4-3 8-3 60-15 21-7 20-4 9-4 20-4 9-4 32-7 9-4 20-4 50-15 31-7 10-4 31-7 72 32 11 7 65 28 11 7 47 20 5 3-3 3 5 1 37-10z"/>
<path fill="#00c29e" d="M142 287l8 9 26 13 47 20 29 15 47 20 38 19 60 26 16 9 60 26 11 6 7 8 4-6 5-3 32-7 9-4 20-4 3-2 37-9 10-4 20-4 3-2 49-12 10-4 37-9 3-2 61-15 9-4 20-4 9-4 32-7 9-4 59-15 7-8-4-2-17 4-9 4-20 4-50 15-20 4-21 7-60 15-10 4-72 18-13 5-16 3-13 5-28 6-9 4-61 15-9 4-14 3-4 3-2-3-126-57-16-9-60-26-16-9-60-26-16-9-45-20zM860 285l-1-4-106-48-16-9-69-30-16-9-53-23-6 4-2-4-3-1-78 22-16 3-21 7-8 1-10 4-31 7-21 7-20 4-9 4-20 4-13 5-28 6-9 4-20 4-50 15-20 4-5 2-1 2 1 4 15 7 6 1 3-1-4-2 2-2 7-1 10-4 31-7 10-4 60-15 21-7 20-4 9-4 20-4 21-7 20-4 9-4 32-7 9-4 20-4 9-4 20-4 21-7 7-1 4 10 4-8 3-2 21 11 60 26 29 15 47 20 29 15 47 20 8 5-4 2 6 1 18-5z"/>
<path fill="#00c99b" d="M132 277l8 10 50 22 16 9 60 26 16 9 60 26 16 9 126 57 6 8 3-6 6-3 8-1 9-4 20-4 21-7 20-4 9-4 32-7 9-4 20-4 9-4 61-15 3-2 8-1 39-12 31-7 21-7 20-4 10-4 37-9 3-2 20-4 9-4 20-4 5-2 5-7 2 0 0-2-4-1-21 7-72 18-39 12-72 18-9 4-61 15-9 4-20 4-21 7-49 12-21 7-31 7-33 10-21-9-16-9-60-26-16-9-69-30-16-9-60-26-16-9-60-26-16-9zM878 280l-1-4-18-9-60-26-16-9-38-16-38-19-111-50-25 6-21 7-20 4-9 4-31 7-10 4-31 7-39 12-31 7-10 4-31 7-50 15-20 4-13 5-28 6-9 4-26 6-1 2 2 5 13 6 7 1 2-1-4-2 3-2 20-4 10-4 37-9 3-2 20-4 9-4 32-7 9-4 20-4 9-4 20-4 21-7 20-4 3-2 8-1 10-4 8-1 21-7 20-4 3-2 8-1 10-4 31-7 22-7 5 10 4-7 3-2 257 119-5 2 9 1 14-4z"/>
<path fill="#00cf97" d="M122 268l7 9 22 11 60 26 16 9 60 26 16 9 69 30 16 9 60 26 16 9 23 10 24-6 10-4 31-7 10-4 8-1 3-2 20-4 50-15 20-4 9-4 32-7 9-4 20-4 9-4 72-18 39-12 20-4 21-7 59-15 7-8-4-2-17 4-21 7-20 4-13 5-16 3-13 5-28 6-9 4-61 15-9 4-72 18-10 4-60 15-21 7-20 4-13 5-57 14-10 4-14-8-60-26-16-9-60-26-16-9-60-26-16-9-60-26-16-9-40-18zM897 275l-1-4-51-22-16-9-60-26-16-9-60-26-16-9-60-26-19-10-27 8-16 3-21 7-8 1-10 4-8 1-7 3-16 3-21 7-20 4-9 4-20 4-13 5-28 6-9 4-20 4-50 15-20 4-21 7-78 20-2 3 1 4 19 8 3-1-3-3 4-2 61-15 9-4 20-4 50-15 20-4 21-7 31-7 39-12 31-7 10-4 31-7 9-4 20-4 21-7 25-6 32 14 16 9 60 26 16 9 60 26 16 9 60 26 18 9 0 2-5 1 7 2 20-6z"/>
<path fill="#00d694" d="M111 259l8 9 122 55 16 9 60 26 16 9 60 26 16 9 60 26 16 9 11-4 31-7 10-4 20-4 9-4 20-4 21-7 60-15 10-4 31-7 21-7 20-4 9-4 61-15 9-4 32-7 9-4 20-4 9-4 61-15 4-2 5-7 3 0-4-3-12 3-13 5-28 6-9 4-61 15-9 4-20 4-21 7-31 7-39 12-31 7-10 4-31 7-13 5-28 6-9 4-20 4-9 4-20 4-21 7-20 4-27 8-43-19-16-9-69-30-16-9-60-26-16-9-60-26-16-9-71-32zM914 270l-1-4-13-5-16-9-60-26-16-9-69-30-16-9-124-56-8 1-9 4-72 18-39 12-31 7-25 8-16 3-39 12-31 7-13 5-28 6-9 4-20 4-13 5-28 6-9 4-49 13-1 2 1 4 6 4 12 4 3-1-4-2 5-3 20-4 3-2 49-12 21-7 20-4 50-15 20-4 9-4 32-7 9-4 20-4 9-4 20-4 21-7 20-4 3-2 8-1 10-4 8-1 21-7 20-4 3-2 20-5 16 9 60 26 16 9 60 26 16 9 127 57 0 2-5 1 6 2 15-4z"/>
<path fill="#00dc91" d="M91 240l18 18 17 9 60 26 16 9 60 26 16 9 60 26 16 9 69 30 16 9 45 20 48-12 21-7 20-4 9-4 20-4 9-4 32-7 9-4 20-4 21-7 20-4 3-2 37-9 10-4 31-7 21-7 20-4 9-4 61-15 9-4 57-14 4-2 3-6 6-2 5-7 2 0 0-2-4-1-7 3-16 3-50 15-20 4-13 5-57 14-13 5-16 3-21 7-60 15-10 4-20 4-21 7-60 15-10 4-72 18-9 4-31 7-4-3-60-26-16-9-69-30-16-9-60-26-16-9-60-26-16-9-67-30zM950 261l-1-5-33-14-16-9-60-26-16-9-60-26-16-9-60-26-16-9-70-31-20 4-21 7-60 15-10 4-72 18-13 5-57 14-9 4-61 15-9 4-20 4-21 7-60 15-10 4-31 7-4 3 2 5 31 14 7 1 1-1-3-2 16-6 72-18 9-4 20-4 9-4 32-7 9-4 20-4 3-2 37-9 10-4 20-4 21-7 31-7 39-12 8-1 3-2 20-4 10-4 48-12 45 20 16 9 60 26 16 9 69 30 16 9 60 26 16 9 14 6-4 2 4 2 38-10z"/>
<path fill="#00e28e" d="M80 230l9 10 72 32 16 9 60 26 16 9 60 26 16 9 69 30 16 9 60 26 8 5 10-4 20-4 9-4 61-15 3-2 37-9 10-4 20-4 3-2 8-1 21-7 20-4 10-4 37-9 3-2 61-15 9-4 20-4 9-4 32-7 9-4 20-4 50-15 20-4 3-2 7-1 7-8-4-2-17 4-13 5-57 14-9 4-61 15-50 15-72 18-39 12-31 7-13 5-28 6-9 4-20 4-13 5-28 6-9 4-20 4-27 8-43-19-16-9-60-26-16-9-60-26-16-9-69-30-16-9-60-26-16-9-23-10zM968 256l-2-5-11-6-60-26-16-9-69-30-20-11-56-24-20-11-56-24-20-11-35-15-37 9-13 5-28 6-9 4-20 4-9 4-20 4-21 7-31 7-39 12-31 7-10 4-31 7-21 7-20 4-9 4-20 4-13 5-28 6-9 4-60 15-16 5-1 2 1 4 19 8 5-1-5-3 1-1 31-7 10-4 60-15 21-7 20-4 9-4 61-15 9-4 61-15 9-4 61-15 3-2 8-1 39-12 31-7 21-7 20-4 67 30 16 9 60 26 16 9 60 26 16 9 60 26 16 9 29 12 5 3-1 2-3 0 6 2 7-3 11-2z"/>
<path fill="#00e98b" d="M70 221l8 9 28 12 16 9 60 26 16 9 69 30 16 9 60 26 16 9 60 26 16 9 45 20 48-12 9-4 32-7 9-4 20-4 9-4 32-7 9-4 20-4 3-2 37-9 10-4 20-4 21-7 31-7 10-4 37-9 3-2 61-15 9-4 20-4 9-4 66-17 4-7 3 0-4-3-62 18-72 18-39 12-72 18-9 4-61 15-9 4-20 4-50 15-20 4-21 7-31 7-10 4-8 1-45 13-27-14-56-24-29-15-136-61-16-9-60-26-16-9-66-29zM987 251l-1-4-7-4-38-16-20-11-56-24-20-11-56-24-20-11-65-28-11-7-65-28-9-6-14-6-43 11-10 4-8 1-7 3-16 3-21 7-20 4-13 5-16 3-21 7-20 4-9 4-20 4-21 7-20 4-9 4-72 18-39 12-72 18-13 5-40 10-4 3 1 5 17 7 5 0-4-3 14-5 60-15 9-4 32-7 9-4 20-4 9-4 20-4 21-7 20-4 21-7 31-7 39-12 31-7 21-7 20-4 9-4 20-4 9-4 32-7 9-4 37-9 32 14 20 11 56 24 20 11 56 24 20 11 69 30 16 9 60 26 13 8-4 2 6 1 19-5z"/>
<path fill="#00ef87" d="M1051 230l-441-203-49 12-9 4-20 4-9 4-32 7-9 4-20 4-3 2-37 9-10 4-20 4-3 2-49 12-10 4-37 9-3 2-61 15-9 4-20 4-9 4-32 7-9 4-20 4-21 7-8 1-33 10-8 1-3 2-8 1-10 4-8 1 13 11 5 9 8 8 5 2 6 8 68 30 29 15 47 20 29 15 47 20 29 15 47 20 29 15 56 24 29 15 25-6 10-4 8-1 3-2 8-1 10-4 31-7 21-7 20-4 50-15 20-4 9-4 32-7 9-4 20-4 9-4 61-15 3-2 37-9 10-4 72-18 10-4 37-9 3-2 16-3 4-2 3-6 6-2 4-6 3-1 0-2 5-6 7-3 2-4zM984 250l-5 1 1 1-5 3-60 15-9 4-20 4-21 7-20 4-9 4-61 15-9 4-20 4-21 7-20 4-3 2-37 9-10 4-72 18-50 15-20 4-9 4-31 7-63-28-20-11-56-24-20-11-65-28-11-7-65-28-11-7-66-29 2-1-4-3 25-8 20-4 9-4 20-4 21-7 31-7 39-12 72-18 9-4 20-4 21-7 20-4 9-4 20-4 21-7 20-4 9-4 20-4 21-7 20-4 3-2 8-1 10-4 8-1 3-2 32-8 20 11 65 28 11 7 65 28 20 11 56 24 20 11 56 24 20 11 38 16z"/>
<path fill="#00f584" d="M1051 230l-441-203-49 12-9 4-20 4-9 4-32 7-9 4-20 4-3 2-37 9-10 4-20 4-3 2-49 12-10 4-37 9-3 2-61 15-9 4-20 4-9 4-32 7-9 4-20 4-21 7-8 1-33 10-8 1-3 2-8 1-10 4-8 1 5 4 3 6 8 9 64 28 20 11 56 24 20 11 56 24 20 11 132 59 20 11 37 16 6 7 4-6 11-4 31-7 9-4 61-15 9-4 20-4 21-7 20-4 9-4 20-4 21-7 60-15 10-4 72-18 9-4 61-15 9-4 32-7 9-4 20-4 9-4 30-7 4-6 6-5 1-3zM1020 240l-3 1-1 3-19 4-10 4-72 18-9 4-20 4-21 7-20 4-9 4-61 15-9 4-20 4-21 7-20 4-3 2-37 9-10 4-72 18-50 15-20 4-9 4-31 7-18-8-7-5-69-30-7-5-69-30-7-5-56-24-29-15-146-66 0-2-4-2 8-4 20-4 9-4 32-7 9-4 20-4 9-4 20-4 21-7 20-4 3-2 37-9 10-4 72-18 10-4 37-9 3-2 61-15 9-4 61-15 9-4 20-4 21-7 18-4 5 10 4-8 3-2 47 23 47 20 29 15 56 24 20 11 56 24 20 11 56 24 20 11 56 24z"/>
<path fill="#00fc81" d="M1056 231l-12-7-47-20-29-15-69-30-16-9-60-26-16-9-60-26-16-9-38-16-38-19-45-20-49 12-9 4-20 4-9 4-32 7-9 4-20 4-3 2-37 9-10 4-72 18-39 12-72 18-9 4-20 4-9 4-32 7-9 4-20 4-21 7-31 7-10 4-8 1-3 2-8 1-23 7 5 2 6 7 19 8 20 11 56 24 20 11 56 24 20 11 65 28 11 7 65 28 11 7 65 28 7 5 17 7 7 8 5-7 16-5 20-4 3-2 49-12 10-4 37-9 3-2 61-15 9-4 20-4 9-4 32-7 9-4 20-4 21-7 20-4 9-4 20-4 3-2 49-12 39-12 72-18 9-4 20-4 5-2 5-7zM1038 235l-22 7-8 1-3 2-8 1-10 4-31 7-21 7-20 4-9 4-61 15-9 4-61 15-9 4-20 4-21 7-20 4-3 2-37 9-10 4-72 18-50 15-20 4-9 4-31 7-63-28-20-11-56-24-20-11-65-28-11-7-65-28-11-7-65-28-20-11-29-12-4-3 9-4 20-4 50-15 72-18 39-12 72-18 9-4 20-4 9-4 32-7 9-4 20-4 21-7 20-4 9-4 20-4 21-7 31-7 10-4 31-7 10-4 24-6 4 10 6-9 73 32 29 15 47 20 29 15 47 20 29 15 47 20 29 15 47 20 16 9z"/>
</g>
<g clip-path="url(#f4c)"><use href="#f4s" filter="url(#sb)"/></g>
</g>
<g font-size="10" fill="#262626">
<text x="156.5" y="354" text-anchor="middle">Function Topology</text>
<text x="23.1" y="515" text-anchor="end">0</text>
<text x="23.1" y="492.5" text-anchor="end">20</text>
<text x="23.1" y="470" text-anchor="end">40</text>
<text x="23.1" y="447.6" text-anchor="end">60</text>
<text x="23.1" y="425.1" text-anchor="end">80</text>
<text x="23.1" y="402.7" text-anchor="end">100</text>
<text x="134.4" y="574.9" text-anchor="end">-100</text>
<text x="78.5" y="549.2" text-anchor="end">0</text>
<text x="22.6" y="523.5" text-anchor="end">100</text>
<text x="142.4" y="575.4">-100</text>
<text x="178.8" y="565.5">-50</text>
<text x="215.2" y="555.7">0</text>
<text x="251.6" y="545.8">50</text>
<text x="288" y="535.9">100</text>
<text x="75.5" y="578.2" text-anchor="middle">x<tspan font-size="7.8" dy="3.0">2</tspan></text>
<text x="208.2" y="580.2" text-anchor="middle">x</text>
<text transform="translate(8.6,448.8) rotate(-90)" text-anchor="middle" xml:space="preserve">F4( x<tspan font-size="7.8" dy="3.0">1</tspan><tspan dy="-3.0"> , x</tspan><tspan font-size="7.8" dy="3.0">2</tspan><tspan dy="-3.0"> )</tspan></text>
</g>
<g font-family="Liberation Serif, Times New Roman, serif" fill="#000" stroke="#000" stroke-width=".5">
<text transform="translate(119.3 641.8) scale(.875 1)" font-size="46" font-style="italic">F</text>
<text transform="translate(142 651.5) scale(1.15 1)" font-size="31.3">4</text>
</g>
</g>
<g id="f5">
<path d="M466.4 556.8L354.6 505.4M354.6 505.4L354.6 393.2M502.8 546.9L391 495.6M391 495.6L391 383.4M539.2 537.1L427.4 485.7M427.4 485.7L427.4 373.5M575.6 527.2L463.8 475.8M463.8 475.8L463.8 363.7M612 517.4L500.2 466M500.2 466L500.2 353.8M466.4 556.8L612 517.4M612 517.4L612 405.2M438.4 544L584.1 504.5M584.1 504.5L584.1 392.3M410.5 531.1L556.1 491.7M556.1 491.7L556.1 379.5M382.5 518.3L528.2 478.8M528.2 478.8L528.2 366.6M354.6 505.4L500.2 466M500.2 466L500.2 353.8M354.6 505.4L500.2 466M500.2 466L612 517.4M354.6 477.4L500.2 437.9M500.2 437.9L612 489.3M354.6 449.3L500.2 409.9M500.2 409.9L612 461.3M354.6 421.3L500.2 381.8M500.2 381.8L612 433.2M354.6 393.2L500.2 353.8M500.2 353.8L612 405.2" fill="none" stroke="#444" stroke-width="0.6" stroke-dasharray="0.7 2.6"/>
<g transform="scale(.1)" fill="none" stroke-width="8" stroke-dasharray="30 12">
<path stroke="#0020ef" d="M5896 5071l-1461 392M3775 5159l1452-396"/>
<path stroke="#003fdf" d="M5958 5099l-1460 393M3712 5130l1452-396"/>
<path stroke="#005fd0" d="M6000 5119l-1460 392M3669 5111l1453-396"/>
<path stroke="#007ec0" d="M6033 5134l-1460 392M3637 5096l1453-396"/>
<path stroke="#009eb0" d="M6060 5146l-1460 393M3610 5083l1453-395"/>
<path stroke="#00bda0" d="M6083 5157l-1460 392M3586 5073l1454-396"/>
<path stroke="#00dd91" d="M6103 5166l-1459 393M3566 5063l1453-395"/>
<path stroke="#00fc81" d="M5392 5371l-730 196M3547 5055l727-198"/>
</g>
<path d="M354.6 505.4L466.4 556.8L612 517.4" fill="none" stroke="#333" stroke-width="0.7"/>
<path d="M354.6 505.4L354.6 393.2" fill="none" stroke="#333" stroke-width="0.7"/>
<path d="M466.4 556.8l-2.9 0.8M438.4 544l-2.9 0.8M410.5 531.1l-2.9 0.8M382.5 518.3l-2.9 0.8M354.6 505.4l-2.9 0.8M466.4 556.8l2.7 1.3M502.8 546.9l2.7 1.3M539.2 537.1l2.7 1.3M575.6 527.2l2.7 1.3M612 517.4l2.7 1.3M354.6 505.4l-2.9 0.8M354.6 477.4l-2.9 0.8M354.6 449.3l-2.9 0.8M354.6 421.3l-2.9 0.8M354.6 393.2l-2.9 0.8" fill="none" stroke="#333" stroke-width="0.7"/>
<clipPath id="f5c"><path clip-rule="evenodd" d="M1056 326l-379 98-8-19-5-20-5-11-20-80-4-26-5-17-5-35-3-9-13-86-4 0-18 6-5 0-7 3-5 0-30 9-5 0-30 9-5 0-18 6-17 3-6 3-5 0-7 3-17 3-6 3-5 0-33 10-17 3-18 6-17 3-18 6-17 3-6 3-5 0-7 3-17 3-6 3-5 0-7 3-17 3-6 3-5 0-7 3-17 3-6 3-17 3-33 10-5 0-18 6-5 0-18 6-5 0-7 3-5 0-18 6-5 0-7 3-5 0-14 4 18 113 4 14 6 38 5 16 3 19 5 15 5 25 4 9 5 22 4 8 7 25 5 9 3 11 10 22 20 35 9 12 20 21 29 21 30 16 31 13 5 4 31 14 6 1 21 9 23 5 14 0 22-5 3-2 64-16 3-2 16-3 89-25 60-15 7-3 23-5 108-30 34-8 7-3 19-4 7-3 4 0 133-36 7-5 4-1 18-17 8-11 13-24 2-7 6-11 5-17 4-7 20-72 4-24 5-17 5-33 4-14z"/></clipPath>
<g transform="translate(348,347) scale(0.25)" fill-rule="evenodd">
<g id="f5s">
<path fill="#0004fd" d="M450 600l-4-1-6 3-5 0-12 4-2 3-5 2-5 0-36 11-20 4-6 3-5 0-36 11-20 4-6 3-5 0-36 11-20 4-6 3-5 0-36 11-5 0-13 5 14 13 27 17 21 11 31 13 7 5 47 20 32 8 14 0 28-7 19-18 15-24 12-24 2-8 6-12 7-26 3-5 6-27 4-10z"/>
<path fill="#000bfa" d="M1053 329l-376 97-3-2-3-11-5-10-5-20-4-8-20-80-4-26-5-17-5-35-3-9-13-85-32 9-5 0-18 6-17 3-18 6-17 3-18 6-17 3-6 3-5 0-7 3-17 3-6 3-5 0-33 10-17 3-18 6-17 3-18 6-17 3-6 3-5 0-7 3-17 3-6 3-5 0-7 3-17 3-6 3-5 0-7 3-17 3-6 3-5 0-7 3-5 0-18 6-5 0-33 10-17 3-6 3-5 0-7 3-17 3-6 3-5 0-7 3-17 3 4 17 5 42 3 9 6 43 4 14 6 38 5 16 3 19 5 15 5 25 4 9 5 22 4 8 7 25 5 9 3 11 10 22 20 35 9 11-1 3 17 18 24-7 5 0 24-8 5 0 6-3 5 0 10-4 17-3 9-4 20-4 21-7 17-3 9-4 20-4 21-7 17-3 24-8 5 0 9-3-1-1 2-2 9-3 5 0 6-3 2 1 0 3 2 0-20 69-4 7-4 13-19 36-11 15-15 13-16 3-7 3-5 0-7 3 7 0 22-5 3-2 44-11-1-1 3-2 2 2 34-9-1-1 3-2 2 2 22-6-1-1 2-2 2 0 1 2 23-7 4 0 7-3 29-7-1-1 3-2 2 2 63-17-1-1 3-2 2 2 34-9-1-1 2-2 3 2 22-6-1-1 2-2 5-1 1 2 19-5 1-3 2 0 1 2 11-3-1-1 3-2 2 2 22-6-1-1 3-2 2 2 37-10-1-1 3-2 2 2 22-6-1-1 3-2 2 2 8-2-1-1 2-2 2 2 23-6-1-1 2-2 4-1 2 2 19-5-1-1 2-2 5-1 1 2 9-2 7-3 18-4-1-1 2-2 4-1 2 2 19-5-1-1 2-2 12-6 17-16 8-11 7-15 4-5 10-22 17-50 8-35 4-11 4-24 5-17 5-33 4-14z"/>
<path fill="#0012f6" d="M956 602l-4-1-7 3-5 0-15 6-5 0-21 7-17 3-9 4-17 3-10 4-16 3-10 4-5 0-47 14-17 3-10 4-16 3-36 11-5 0-21 7-17 3-9 4-17 3-10 4-16 3-10 4-5 0-6 3-20 4-21 7-17 3-9 4-17 3-10 4-16 3-10 4-5 0-47 14-23 5-4 4-9 5-8 2 10-2 6-3 5 0 10-4 5 0 6-3 5 0 10-4 16-3 10-4 17-3 9-4 5 0 48-14 5 0 21-7 5 0 21-7 5 0 10-4 5 0 21-7 5 0 21-7 20-4 6-3 5 0 48-14 5 0 9-4 5 0 33-10 5 0 10-4 5 0 6-3 5 0 10-4 5 0 21-7 20-4 6-3 5 0 22-7 5 0 9-4 5 0 21-7 5 0 14-4zM461 560l-4-3-9 4-17 3-21 7-5 0-21 7-5 0-36 11-17 3-9 4-17 3-21 7-5 0-21 7-5 0-10 4-5 0-21 7-17 3-9 4-17 3-10 4-32 8 14 20 8-1 4-2 0-3 15-3 9-4 5 0 36-11 17-3 9-4 17-3 10-4 16-3 10-4 5 0 6-3 20-4 36-11 5 0 6-3 20-4 21-7 17-3 9-4 10-2 1 4 4-4z"/>
<path fill="#0019f3" d="M964 597l-9 0-9 4-17 3-10 4-16 3-10 4-5 0-6 3-20 4-21 7-17 3-9 4-17 3-10 4-16 3-33 10-5 0-10 4-5 0-6 3-20 4-21 7-17 3-9 4-17 3-10 4-16 3-10 4-5 0-47 14-17 3-21 7-17 3-9 4-5 0-33 10-5 0-10 4-5 0-6 3-5 0-10 4-5 0-9 3-10 9-3 1 4 0 21-7 5 0 21-7 5 0 10-4 5 0 21-7 5 0 21-7 17-3 9-4 17-3 36-11 5 0 6-3 20-4 21-7 17-3 9-4 17-3 10-4 16-3 10-4 5 0 21-7 17-3 9-4 17-3 10-4 16-3 10-4 5 0 6-3 20-4 21-7 17-3 9-4 5 0 33-10 5 0 15-6 5 0 14-5zM464 543l-4-3-4 2-5 0-9 4-17 3-21 7-5 0-21 7-5 0-36 11-17 3-9 4-17 3-10 4-16 3-10 4-5 0-44 13-5 0-10 4-5 0-21 7-17 3-9 4-5 0-19 6 10 16 5 0 10-4 5 0 21-7 17-3 9-4 17-3 10-4 16-3 10-4 5 0 6-3 20-4 21-7 17-3 9-4 17-3 10-4 16-3 10-4 5 0 21-7 17-3 9-4 17-3 9-4 0 5 3-2 2-5z"/>
<path fill="#0020ef" d="M972 589l-8 0-21 7-17 3-9 4-5 0-33 10-17 3-9 4-17 3-12 6-8 1-6 3-5 0-36 11-17 3-9 4-17 3-10 4-16 3-7 3-5 0-10 4-16 3-36 11-5 0-21 7-5 0-33 10-16 3-10 4-17 3-9 4-17 3-21 7-5 0-59 17-5 0-13 4-10 10 13-4 5 0 10-4 5 0 6-3 5 0 10-4 16-3 10-4 17-3 9-4 5 0 7-3 17-3 9-4 17-3 36-11 5 0 6-3 20-4 21-7 17-3 9-4 17-3 10-4 16-3 10-4 5 0 21-7 17-3 6-3 20-4 21-7 17-3 9-4 17-3 10-4 16-3 10-4 5 0 6-3 20-4 21-7 17-3 9-4 7-1zM467 529l-1-2-7-1-10 4-16 3-36 11-5 0-21 7-5 0-33 10-16 3-10 4-17 3-9 4-17 3-10 4-16 3-7 3-5 0-10 4-16 3-36 11-5 0-21 7-17 3-9 4 7 14 18-5 5 0 9-4 17-3 21-7 5 0 10-4 5 0 18-6 5 0 10-4 5 0 21-7 5 0 21-7 17-3 9-4 5 0 33-10 5 0 10-4 5 0 21-7 17-3 9-4 17-3 9-4 5 0 4-2 0 4 2 0 3-6z"/>
<path fill="#0027ec" d="M977 584l-2-1-13 4-5 0-21 7-5 0-59 17-17 3-10 4-16 3-10 4-5 0-6 3-5 0-33 10-5 0-10 4-5 0-21 7-17 3-9 4-17 3-21 7-17 3-9 4-17 3-21 7-17 3-9 4-17 3-21 7-17 3-21 7-20 4-6 3-5 0-10 4-5 0-33 10-16 3-8 3-10 11 33-8 10-4 17-3 9-4 17-3 21-7 17-3 9-4 17-3 36-11 5 0 6-3 17-3 10-4 16-3 10-4 5 0 21-7 17-3 9-4 5 0 33-10 17-3 9-4 5 0 33-10 5 0 10-4 5 0 6-3 11-2 9-5 17-3 9-4 17-3 21-7 17-3 9-4 5 0 22-7 5 0 6-3 5 0zM470 513l-4-3-8 1-6 3-20 4-21 7-17 3-21 7-17 3-9 4-17 3-21 7-17 3-9 4-17 3-10 4-16 3-7 3-5 0-10 4-16 3-36 11-5 0-33 10-5 0-6 3-11 2 4 12 3 5 8-3 17-3 10-4 16-3 10-4 5 0 21-7 17-3 9-4 5 0 33-10 17-3 9-4 5 0 33-10 5 0 10-4 5 0 6-3 17-3 10-4 16-3 10-4 5 0 21-7 17-3 9-4 4 0 0 4 3-1 2-3z"/>
<path fill="#002ee8" d="M984 575l-3-1-12 4-5 0-10 4-5 0-21 7-17 3-6 3-20 4-21 7-5 0-33 10-17 3-9 4-5 0-33 10-17 3-9 4-5 0-33 10-17 3-9 4-5 0-7 3-17 3-9 4-5 0-7 3-11 2-4 4-5 2-16 3-7 3-5 0-10 4-16 3-33 10-5 0-10 4-16 3-33 10-5 0-36 11-5 0-5 2-7 10 37-11 5 0 18-6 5 0 10-4 5 0 6-3 5 0 10-4 17-3 9-4 5 0 33-10 17-3 9-4 5 0 33-10 17-3 9-4 5 0 33-10 17-3 9-4 5 0 22-7 5 0 6-3 5 0 10-4 5 0 33-10 5 0 6-3 20-4 21-7 5 0 33-10 17-3 9-4 5 0 33-10 17-3 3-2zM473 495l-1-2-6-1-33 10-5 0-6 3-5 0-10 4-5 0-33 10-16 3-10 4-5 0-18 6-5 0-4 2-2 6-5 2-16 3-10 4-5 0-44 13-5 0-10 4-5 0-21 7-17 3-6 3-20 4-21 7-23 5 0 2 5 10 2 1 30-9 17-3 6-3 5 0 10-4 16-3 10-4 17-3 9-4 17-3 21-7 17-3 9-4 5 0 33-10 17-3 9-4 5 0 22-7 5 0 6-3 5 0 33-10 5 0 10-4 5 0 6-3 8-1 1 3 2 0 2-4z"/>
<path fill="#0035e4" d="M988 568l-2-1-16 5-5 0-6 3-20 4-21 7-17 3-21 7-5 0-33 10-16 3-10 4-17 3-21 7-5 0-33 10-16 3-10 4-17 3-6 3-5 0-10 4-5 0-18 6-5 0-36 11-5 0-33 10-5 0-33 10-5 0-6 3-5 0-10 4-5 0-33 10-5 0-33 10-5 0-10 4-7 5-8 1-7 11 23-7 16-3 10-4 17-3 6-3 5 0 10-4 16-3 10-4 17-3 21-7 5 0 21-7 5 0 7-3 16-3 8-3 2-3 5-2 17-3 9-4 5 0 7-3 17-3 9-4 17-3 21-7 17-3 9-4 17-3 21-7 17-3 9-4 17-3 21-7 17-3 21-7 20-4 6-3 5 0 33-10 5 0 10-4 16-3 5-4zM475 482l-4-3-42 12-17 3-21 7-5 0-33 10-16 3-10 4-17 3-21 7-17 3-6 3-20 4-21 7-17 3-21 7-5 0-33 10-16 3-10 4-5 0-6 2-4 8-11 2 3 11 3 3 42-12 5 0 10-4 5 0 6-3 17-3 21-7 5 0 10-4 5 0 18-6 5 0 10-4 5 0 21-7 5 0 7-3 15-3-2-4 2-3 5 0 6-3 17-3 10-4 5 0 21-7 5 0 18-6 5 0 10-4 5 0 6-3 5 0 33-10 3 0 1 3 2 0 2-4z"/>
<path fill="#003ce1" d="M1053 329l-7 1-6 3-5 0-7 3-5 0-7 3-5 0-18 6-5 0-7 3-5 0-6 3-17 3-18 6-17 3-21 7-17 3-6 3-5 0-7 3-17 3-6 3-5 0-7 3-17 3-6 3-5 0-7 3-17 3-6 3-17 3-18 6-17 3-30 9-10 0-4-12-33 10-17 3-9 4-5 0-33 10-5 0-7 3-16 3-10 4-17 3-9 4-17 3-21 7-17 3-21 7-17 3-6 3-5 0-10 4-5 0-18 6-5 0-36 11-5 0-33 10-5 0-33 10-5 0-6 3-5 0-33 10-17 3-47 14-17 3-21 7-16 3-1 2 7 18 8 0 10-3-2-5 5-3 5 0 21-7 5 0 10-4 5 0 18-6 5 0 21-7 17-3 21-7 20-4 6-3 17-3 21-7 17-3 21-7 5 0 21-7 17-3 10-4 16-3 7-3 5 0 10-4 32-8 1 4 2 1-6 37-5 18-4 27-19 75-3 5-7 26-4 7-4 13-8 16-4 2-8 14 1 1 4-2 5 0 17-9 5 0 10-4 17-3 21-7 5 0 18-6 5 0 36-11 5 0 18-6 5 0 10-4 5 0 18-6 5 0 21-7 5 0 10-4 5 0 18-6 5 0 21-7 17-3 21-7 5 0 10-4 5 0 18-6 5 0 21-7 17-3 21-7 20-4 6-3 17-3 21-7 17-3 10-4 16-3 10-4 5 0 6-3 5 0 17-5 5-10-2-2 4-5 10-22 17-50 21-87 4-28 5-19z"/>
<path fill="#0043dd" d="M674 415l-6-15-12 4-17 3-21 7-17 3-21 7-5 0-33 10-5 0-33 10-5 0-6 3-5 0-33 10-17 3-21 7-17 3-9 4-17 3-21 7-17 3-21 7-5 0-33 10-5 0-33 10-5 0-6 3-5 0-33 10-17 3-15 5-1 7-9 3-5 0-9 4-17 3-21 7-8 1 3 9 16-3 21-7 5 0 33-10 17-3 9-4 5 0 33-10 17-3 6-3 5 0 10-4 5 0 33-10 5 0 18-6 5 0 21-7 5 0 10-4 5 0 33-10 5 0 6-3 17-3 21-7 17-3 21-7 17-3 9-4 17-3 21-7 17-3 10-4 16-3 7-3 5 0 9-4 5 0 7-3 17-3 9-4 5 0zM1053 329l-578 149-7 46-5 18-4 27-19 75-3 5-7 26-4 7-4 13-6 12-4 2-3 7 15-3 10-4 5 0 18-6 5 0 10-4 5 0 6-3 17-3 10-4 5 0 6-3 5 0 33-10 5 0 10-4 5 0 6-3 17-3 21-7 17-3 9-4 5 0 7-3 17-3 9-4 17-3 21-7 17-3 9-4 5 0 7-3 17-3 9-4 17-3 21-7 17-3 6-3 5 0 10-4 17-3 9-4 17-3 21-7 17-3 6-3 5 0 10-4 5 0 19-6 6-10-2-1 1-4 8-16 17-50 21-87 4-28 5-19z"/>
<path fill="#004ada" d="M664 386l-4 2-5 0-21 7-17 3-21 7-17 3-6 3-5 0-10 4-5 0-18 6-5 0-21 7-17 3-21 7-5 0-33 10-5 0-33 10-16 3-9 3-2 3 1 4-10 4-16 3-7 3-5 0-33 10-5 0-9 4-5 0-7 3-17 3-9 4-5 0-30 9-5 0-10 4-5 0-44 13-17 3-21 7-17 3-8 3 4 15 8 0 21-7 17-3 9-4 19-4-2-5 1-2 12-4 17-3 21-7 17-3 21-7 5 0 33-10 5 0 33-10 5 0 6-3 5 0 33-10 17-3 9-4 5 0 7-3 17-3 9-4 17-3 21-7 17-3 21-7 5 0 33-10 5 0 33-10 5 0 6-3 5 0 33-10 17-3 13-4zM1053 329l-578 149-7 46-5 18-4 27-19 75-3 5-7 26-4 7-4 13-3 4-2 0-6 13 28-8 5 0 7-3 5 0 9-4 17-3 5-6 14-3 10-4 17-3 21-7 17-3 6-3 5 0 10-4 5 0 18-6 5 0 21-7 17-3 21-7 5 0 33-10 17-3 9-4 5 0 7-3 17-3 9-4 17-3 21-7 17-3 6-3 5 0 10-4 17-3 6-3 5 0 10-4 5 0 33-10 5 0 6-3 5 0 10-4 5 0 18-6 5 0 10-4 4 0 5-12-2-2 5-9 5-17 4-7 4-17 4-9 8-35 3-7 5-28 5-17 5-33 4-14z"/>
<path fill="#0051d6" d="M662 380l-6 0-10 4-5 0-33 10-5 0-6 3-17 3-21 7-17 3-21 7-17 3-21 7-5 0-33 10-5 0-33 10-5 0-6 3-17 3-21 7-5 0-33 10-5 0-18 6-5 0-10 4-5 0-18 6-5 0-10 4-5 0-18 6-17 3-9 4-5 0-33 10-5 0-7 3-16 3-10 4-17 3-6 3-5 0-12 4 3 12 4 5 6-3 17-3 21-7 5 0 33-10 5 0 18-6 5 0 10-4 5 0 18-6 17-3 9-4 5 0 7-3 17-3 9-4 5 0 7-3 16-3 10-4 5 0 7-3 16-3 10-4 4 0-2-6 8-4 16-3 33-10 5 0 21-7 17-3 21-7 17-3 6-3 5 0 10-4 5 0 18-6 5 0 21-7 17-3 21-7 17-3 21-7 5 0 5-2zM1053 329l-578 149-7 46-5 18-4 27-5 16-5 26-3 6-6 27-4 8-6 23-15 28 17-5 5 0 9-4 5 0 7-3 17-3 9-4 17-3 21-7 17-3 21-7 17-3 6-3 5 0 33-10 5 0 10-4 5 0 6-3 17-3 21-7 17-3 6-7 8-1 9-4 5 0 7-3 17-3 9-4 5 0 30-9 5 0 21-7 17-3 21-7 17-3 10-4 16-3 7-3 5 0 9-4 5 0 7-3 17-3 9-4 5 0 31-9 3-6-1-4 7-20 4-7 4-17 4-9 8-35 4-11 4-24 5-17 5-33 4-14z"/>
<path fill="#0059d3" d="M663 382l-3-5-3-13-6 1-6 3-5 0-10 4-5 0-18 6-5 0-10 4-5 0-18 6-17 3-9 4-17 3-21 7-5 0-30 9-5 0-10 4-5 0-6 3-17 3-10 4-16 3-7 3-5 0-21 7-17 3-21 7-5 0-56 16-17 3-9 4-23 5-2 3 1 5-6 3-5 0-21 7-17 3-21 7-5 0-33 10-5 0-7 3-5 0-17 5 2 10 2 1 21-7 5 0 22-7 5 0 6-3 17-3 21-7 17-3 9-4 5 0 7-3 17-3 6-3 5 0 10-4 5 0 18-6 5 0 21-7 17-3 21-7 17-3 21-7 17-3 21-7 17-3 21-7 5 0 33-10 5 0 6-3 17-3 21-7 17-3 21-7 17-3 6-3 5 0 10-4 5 0 7-3 5 0 6-3 5 0 10-4zM1053 329l-578 149-7 46-5 18-4 27-5 16-5 26-3 6-6 27-4 8-6 23-3 6-4 3-3 9 19-6 17-3 21-7 17-3 9-4 5 0 7-3 17-3 9-4 5 0 33-10 17-3 6-3 17-3 21-7 17-3 9-4 5 0 7-3 17-3 9-4 17-3 21-7 5 0 30-9 5 0 21-7 17-3 21-7 17-3 9-4 5 0 7-3 17-3 9-4 17-3 7-3 16-3 10-4 5 0 42-12 6-13-2-3 7-16 4-17 4-9 8-35 4-11 4-24 5-17 5-33 4-14z"/>
<path fill="#0060cf" d="M655 356l-6 1-21 7-17 3-9 4-5 0-7 3-17 3-6 3-5 0-10 4-5 0-18 6-5 0-10 4-5 0-18 6-17 3-9 4-17 3-33 10-5 0-33 10-5 0-6 3-5 0-7 3-16 3-10 4-17 3-21 7-5 0-56 16-5 0-7 3-16 3-10 4-17 3-21 7-5 0-56 16-20 4 6 19 10-2 6-3 17-3 21-7 17-3 21-7 5 0 18-6 5 0 10-4 15-3-2-7 5-3 17-3 9-4 5 0 7-3 17-3 9-4 17-3 33-10 5 0 6-3 5 0 33-10 5 0 7-3 16-3 10-4 17-3 21-7 5 0 56-16 17-3 9-4 5 0 7-3 17-3 6-3 5 0 33-10 5 0 10-4 5 0 6-3 7-1zM1053 329l-578 149-7 46-5 18-4 27-5 16-5 26-3 6-6 27-3 5-6 22-3 1-6 15 14-4 5 0 18-6 5 0 21-7 17-3 9-4 5 0 7-3 17-3 21-7 5 0 6-8 5 0 33-10 5 0 6-3 5 0 7-3 17-3 9-4 17-3 21-7 5 0 18-6 17-3 21-7 17-3 21-7 17-3 21-7 17-3 6-3 5 0 10-4 5 0 18-6 17-3 9-4 5 0 7-3 17-3 9-4 5 0 7-3 5 0 31-9 3-8-2-3 5-10 4-17 4-9 8-35 4-11 4-24 5-17 5-33 4-14z"/>
<path fill="#0067cc" d="M650 340l-34 8-10 4-5 0-7 3-16 3-10 4-5 0-18 6-17 3-21 7-17 3-21 7-17 3-6 3-17 3-21 7-17 3-10 4 0 8-3 2-5 0-18 6-17 3-21 7-17 3-21 7-17 3-6 3-17 3-21 7-17 3-21 7-5 0-33 10-5 0-56 16-5 0-6 2 2 10 2 1 13-4 5 0 21-7 17-3 33-10 5 0 6-3 17-3 21-7 17-3 21-7 17-3 6-3 17-3 10-4 16-3 7-3 5 0 33-10 5 0 21-7 17-3 21-7 5 0 18-6 17-3 9-4 5 0 7-3 17-3 6-3 5 0 10-4 5 0 18-6 5 0 21-7 5 0 7-3 17-3 9-4 5 0 33-10 7-1zM1053 329l-578 149-7 46-5 18-4 27-5 16-3 18-5 14-6 27-3 5-4 16-3 1-3 10 45-13 5 0 10-4 5 0 6-3 5 0 7-3 17-3 9-4 5 0 30-9 5 0 21-7 17-3 21-7 17-3 21-7 17-3 21-7 5 0 18-6 17-3 21-7 17-3 21-7 17-3 6-3 5 0 33-10 17-3 9-4 5 0 7-3 17-3 9-4 17-3 57-16 6-14-2-1 0-3 8-23 8-35 4-11 4-24 5-17 5-33 4-14z"/>
<path fill="#006ec8" d="M648 331l-3 0-44 13-5 0-7 3-16 3-10 4-17 3-44 13-17 3-56 16-17 3-9 4-17 3-56 16-17 3-9 4-5 0-7 3-17 3-21 7-5 0-18 6-17 3-21 7-5 0-33 10-5 0-18 6-5 0-7 3-5 0-10 4-4 0-10 4-1 9-22 6 2 9 2 2 16-5 5 0 9-4 17-3 33-10 5 0 6-3 5 0 7-3 17-3 9-4 5 0 7-3 16-3 10-4 5 0 18-6 5 0 22-7 5 0 6-3 17-3 21-7 5 0 30-9 5 0 8-3-3-7 8-4 17-3 21-7 17-3 6-3 17-3 21-7 17-3 21-7 17-3 33-10 5 0 6-3 5 0 33-10 5 0 7-3 11-2 1-1zM1053 329l-578 149-7 46-5 18-4 27-5 16-3 18-5 14-6 27-3 5-2 9-3 2-3 9 15-3 10-4 5 0 7-3 5 0 6-3 5 0 33-10 17-3 9-4 5 0 7-3 17-3 6-3 5 0 33-10 17-3 9-4 5 0 7-3 17-3 9-4 17-3 33-10 5 0 10-3 5-8 16-3 7-3 5 0 9-4 5 0 7-3 17-3 21-7 5 0 18-6 17-3 9-4 5 0 7-3 17-3 6-3 5 0 10-4 5 0 18-6 5 0 7-3 5 0 10-4 30-7 3-9-2-4 6-16 21-87 4-28 5-19z"/>
<path fill="#0075c5" d="M1053 329l-578 149-7 46-5 18-4 27-5 16-3 18-5 14-6 27-3 1-2 3-4 15 10-2 9-4 7-1 1-5 3-3 17-3 21-7 17-3 21-7 5 0 18-6 17-3 21-7 5 0 33-10 5 0 30-9 17-3 9-4 5 0 7-3 17-3 21-7 5 0 18-6 17-3 9-4 5 0 7-3 17-3 6-3 5 0 10-4 5 0 18-6 17-3 9-4 5 0 7-3 17-3 6-3 5 0 10-4 5 0 7-3 16-3 7-3 5 0 9-4 5 0 17-5 3-9-2-4 4-9 8-35 3-7 5-28 5-17 4-28 5-19zM646 322l-3 0-56 16-5 0-7 3-16 3-10 4-5 0-18 6-17 3-21 7-5 0-30 9-5 0-10 4-5 0-6 3-5 0-7 3-17 3-9 4-17 3-33 10-5 0-18 6-5 0-18 6-5 0-10 4-5 0-18 6-17 3-21 7-17 3-21 7-5 0-18 6-17 3-21 7-5 0-30 9-5 0-10 4-4 0 0 5 5 16 4 0 22-7-2-5 2-4 11-2 9-4 17-3 33-10 5 0 6-3 5 0 7-3 17-3 9-4 5 0 30-9 5 0 10-4 5 0 6-3 5 0 7-3 17-3 9-4 5 0 7-3 5 0 18-6 5 0 33-10 17-3 9-4 5 0 7-3 17-3 21-7 5 0 18-6 5 0 7-3 16-3 10-4 17-3 6-3 17-3 10-4 16-3 7-3 5 0 21-7 17-3 6-3 4 0z"/>
<path fill="#007cc1" d="M1053 329l-578 149-7 46-5 18-4 27-17 67-4 4-3 9 583-153 5-14-1-8 10-35 5-28 5-17 4-28 5-19zM642 303l-3 0-7 3-17 3-44 13-17 3-21 7-5 0-30 9-5 0-10 4-5 0-9 4 0 9-4 2-5 0-18 6-17 3-9 4-5 0-30 9-17 3-10 4-16 3-7 3-5 0-21 7-17 3-6 3-17 3-21 7-17 3-33 10-5 0-6 3-5 0-7 3-17 3-6 3-5 0-33 10-17 3-21 7-5 0-6 2 3 12 4 0 10-4 5 0 18-6 5 0 7-3 17-3 9-4 17-3 33-10 5 0 6-3 5 0 7-3 17-3 9-4 17-3 33-10 5 0 6-3 5 0 7-3 17-3 21-7 5 0 18-6 17-3 9-4 5 0 7-3 17-3 21-7 5 0 56-16 17-3 6-3 17-3 21-7 5 0 33-10 5 0 7-3 5 0 7-3 15-3z"/>
<path fill="#0083bd" d="M1053 329l-578 149-7 46-5 18-4 27-5 16-5 26-3 6-2 11-4 4-2 10 10-4 5 0 7-3 17-3 21-7 5 0 18-6 17-3 21-7 17-3 6-3 17-3 21-7 17-3 33-10 5 0 6-3 5 0 7-3 17-3 9-4 17-3 18-6 5 0 33-10 5 0 33-10 18-4 4-8 12-4 5 0 30-9 17-3 9-4 5 0 7-3 17-3 6-3 5 0 10-4 5 0 7-3 36-9 2-7-1-8 8-27 5-28 5-17 4-28 5-19zM639 293l-3 0-6 3-5 0-33 10-5 0-30 9-5 0-21 7-5 0-7 3-17 3-9 4-17 3-56 16-17 3-6 3-17 3-21 7-17 3-7 3 0 9-9 4-5 0-21 7-17 3-33 10-5 0-6 3-17 3-21 7-17 3-18 6-17 3-9 4-5 0-7 3-5 0-18 6-5 0-33 10-8 1 2 11 2 2 16-5 5 0 9-4 17-3 33-10 5 0 6-3 5 0 7-3 17-3 21-7 5 0 18-6 17-3 21-7 5 0 18-6 5 0 22-7 5 0 6-3 17-3 21-7 5 0 30-9 17-3 9-4 5 0 7-3 17-3 6-3 5 0 8-3-2-8 7-4 5 0 10-4 17-3 6-3 17-3 21-7 5 0 30-9 5 0 10-4 5 0 6-3 5 0 7-3 16-3z"/>
<path fill="#008aba" d="M1053 329l-578 149-7 46-5 18-4 27-5 16-5 26-3 9-4 4-2 10 10-2 9-4 5 0 7-3 17-3 6-3 17-3 21-7 5 0 30-9 5 0 10-4 5 0 6-3 5 0 7-3 17-3 9-4 5 0 30-9 17-3 9-4 5 0 7-3 16-3 1-6 3-3 22-5 7-3 5 0 9-4 5 0 7-3 17-3 6-3 17-3 21-7 17-3 33-10 5 0 6-3 5 0 7-3 17-3 6-3 5 0 10-4 5 0 18-6 5 0 7-3 5 0 10-4 24-6 2-7-1-8 6-19 5-28 5-17 4-28 5-19zM637 282l-7 3-5 0-6 3-5 0-33 10-17 3-21 7-17 3-6 3-5 0-7 3-5 0-18 6-5 0-33 10-17 3-21 7-5 0-18 6-5 0-7 3-16 3-10 4-5 0-30 9-17 3-9 4-5 0-7 3-17 3-6 3-5 0-7 3 0 10-4 2-16 3-7 3-5 0-21 7-17 3-18 6-17 3-9 4-5 0-7 3-5 0-18 6-5 0-7 3-5 0-10 4-7 1 3 13 7-1 21-7 17-3 6-3 5 0 7-3 17-3 9-4 17-3 56-16 5 0 18-6 5 0 10-4 5 0 18-6 17-3 21-7 19-4-3-9 5-3 17-3 21-7 5 0 18-6 5 0 7-3 17-3 9-4 17-3 18-6 17-3 9-4 5 0 7-3 17-3 21-7 5 0 18-6 5 0 33-10 5 0 7-3 15-3z"/>
<path fill="#0091b6" d="M1053 329l-578 149-7 46-5 18-4 27-5 16-5 26-5 5-2 10 31-9 17-3 18-6 5 0 10-4 5 0 6-3 5 0 7-3 17-3 6-3 5 0 33-10 17-3 5-2 1-6 3-3 22-5 7-3 5 0 33-10 5 0 6-3 5 0 7-3 17-3 21-7 5 0 18-6 17-3 33-10 5 0 6-3 5 0 7-3 17-3 21-7 5 0 18-6 17-3 21-7 5 0 18-6 5 0 7-3 17-3 9-4 10-2 2-7-1-8 4-11 5-28 5-17 4-28 5-19zM635 272l-13 4-5 0-6 3-5 0-7 3-17 3-9 4-5 0-30 9-17 3-21 7-17 3-6 3-5 0-7 3-17 3-9 4-5 0-30 9-17 3-21 7-17 3-6 3-5 0-7 3-17 3-9 4-5 0-30 9-17 3-9 4-5 0-7 3-17 3-6 3-17 3-10 4 0 11-20 4-9 4-5 0-7 3-17 3-18 6-5 0-21 7-17 3-9 3 2 9 2 4 7-1 9-4 17-3 18-6 17-3 9-4 5 0 7-3 17-3 6-3 17-3 21-7 17-3 19-6-2-9 5-3 5 0 6-3 5 0 7-3 17-3 9-4 5 0 30-9 17-3 21-7 17-3 6-3 17-3 21-7 17-3 33-10 5 0 18-6 17-3 6-3 5 0 22-7 5 0 6-3 5 0 30-9 5 0 10-4 5 0 6-3 5 0 8-3z"/>
<path fill="#0098b3" d="M1053 329l-578 149-7 46-5 18-4 27-5 16-3 18-4 4-3 10 16-3 7-3 5 0 18-6 5 0 10-4 16-3 7-3 5 0 18-6 23-5 3-7 3-3 22-5 21-7 5 0 7-3 17-3 21-7 5 0 18-6 17-3 33-10 5 0 6-3 5 0 7-3 17-3 21-7 5 0 18-6 17-3 33-10 5 0 6-3 5 0 7-3 17-3 21-7 5 0 18-6 5 0 7-3 5 0 18-6 5 0 10-4 15-3 3-11-2-3 3-8 4-24 5-17 4-28 5-19zM633 261l-13 4-5 0-21 7-5 0-30 9-17 3-21 7-5 0-7 3-16 3-7 3-5 0-18 6-5 0-33 10-5 0-30 9-5 0-21 7-5 0-30 9-17 3-21 7-5 0-30 9-17 3-9 4-5 0-30 9-17 3-15 5-1 12-8 1-18 6-5 0-33 10-5 0-18 6-5 0-7 3-11 2 2 12 2 2 7-3 5 0 7-3 16-3 10-4 17-3 6-3 5 0 7-3 17-3 9-4 17-3 8-3-3-9 8-4 5 0 18-6 5 0 7-3 17-3 9-4 5 0 30-9 17-3 9-4 5 0 7-3 17-3 6-3 5 0 7-3 17-3 9-4 5 0 30-9 17-3 9-4 5 0 7-3 17-3 6-3 5 0 7-3 17-3 9-4 5 0 30-9 17-3 9-4 5 0 7-3 17-3 6-3 19-4z"/>
<path fill="#009faf" d="M169 386l-1-2-4-1-42 12-17 3-9 4-5 0-30 9-5 0-6 2 3 14 10-2 18-6 5 0 22-7 5 0 6-3 5 0 30-9 5 0 8-3-2-10zM1053 329l-578 149-7 46-5 18-4 27-5 16-1 9-4 4-2 11 19-6 5 0 18-6 5 0 7-3 5 0 18-6 5 0 10-4 5 0 16-5 2-8 4-4 10-3 1 2 4 0 7-3 5 0 6-3 17-3 21-7 5 0 30-9 17-3 9-4 5 0 7-3 17-3 6-3 5 0 7-3 17-3 9-4 5 0 30-9 17-3 21-7 17-3 6-3 5 0 7-3 17-3 9-4 5 0 30-9 5 0 7-3 16-3 10-4 17-3 6-3 5 0 7-3 17-3 4-9-1-9 9-37 4-28 5-19zM630 250l-9 3-17 3-21 7-5 0-30 9-17 3-21 7-5 0-7 3-16 3-7 3-5 0-18 6-5 0-33 10-17 3-6 3-5 0-7 3-17 3-9 4-17 3-18 6-5 0-7 3-16 3-10 4-5 0-18 6-5 0-7 3-17 3-6 3-5 0-10 4-16 3-13 4 0 13 5 1 7-3 5 0 18-6 17-3 9-4 5 0 7-3 17-3 6-3 5 0 7-3 17-3 9-4 17-3 18-6 5 0 7-3 16-3 10-4 17-3 6-3 5 0 7-3 17-3 6-3 5 0 33-10 5 0 30-9 5 0 10-4 5 0 6-3 5 0 7-3 17-3 6-3 17-3 21-7 19-4z"/>
<path fill="#00a6ac" d="M184 370l-1-2-4-1-30 9-17 3-9 4-5 0-7 3-17 3-6 3-5 0-7 3-16 3-12 4 3 14 10-2 18-6 17-3 9-4 5 0 7-3 5 0 18-6 5 0 7-3 5 0 21-7 4 0-2-11zM1053 329l-578 149-7 46-5 18-4 27-4 15-4 5-2 11 10-2 6-3 5 0 10-4 16-3 7-3 17-3 18-6 5 0 10-4 5 0 6-3 16-3 2-9 4-1-1-1 2-2 11-2 9-4 5 0 16-5 1 2 7-1 6-3 5 0 7-3 17-3 6-3 5 0 33-10 5 0 30-9 5 0 21-7 5 0 7-3 17-3 6-3 17-3 21-7 17-3 18-6 5 0 7-3 16-3 10-4 5 0 18-6 5 0 7-3 17-3 6-3 5 0 10-4 5 0 18-6 16-3 2-8-1-10 7-27 4-28 5-19zM628 238l-4 2-5 0-6 3-17 3-18 6-5 0-33 10-5 0-30 9-17 3-44 13-17 3-56 16-5 0-7 3-5 0-18 6-17 3-6 3-5 0-33 10-5 0-30 9-5 0-10 4 0 12 2 2 13-4 5 0 7-3 5 0 6-3 17-3 21-7 5 0 30-9 17-3 9-4 5 0 7-3 17-3 6-3 5 0 7-3 17-3 6-3 5 0 33-10 5 0 30-9 5 0 21-7 5 0 7-3 17-3 6-3 17-3 21-7 17-3 10-3z"/>
<path fill="#00aea8" d="M230 344l-7-1-21 7-17 3-6 3-5 0-7 3-17 3-6 3-5 0-33 10-5 0-30 9-5 0-10 4-5 0-5 2 2 13 2 2 21-7 17-3 6-3 5 0 7-3 17-3 9-4 5 0 30-9 5 0 30-9 5 0 10-4 5 0 7-3-2-10zM1053 329l-578 149-7 46-5 18-4 27-2 7-4 4-2 11 11-4 5 0 6-3 5 0 7-3 17-3 6-3 17-3 21-7 5 0 30-9 17-3 9-4 17-3 8-3 2-8 5-5 5 0 9-4 5 0 7-3 17-3 6-3 5 0 19-6 4 2 10-4 17-3 18-6 17-3 6-3 5 0 22-7 5 0 6-3 17-3 18-6 5 0 7-3 16-3 10-4 17-3 6-3 5 0 7-3 17-3 6-3 17-3 21-7 5 0 7-3 5 0 18-6 10-2 2-8-1-10 5-17 4-28 5-19zM626 226l-4 2-5 0-18 6-5 0-30 9-5 0-10 4-5 0-6 3-5 0-7 3-17 3-6 3-17 3-21 7-5 0-7 3-5 0-18 6-17 3-18 6-17 3-9 4-5 0-30 9-17 3-10 4-1 6 2 8 5 0 6-3 5 0 7-3 17-3 6-3 5 0 7-3 17-3 9-4 17-3 18-6 5 0 30-9 5 0 10-4 5 0 6-3 5 0 7-3 17-3 6-3 17-3 21-7 5 0 30-9 17-3 6-3 5 0 5-2z"/>
<path fill="#00b5a5" d="M1053 329l-578 149-7 46-5 18-3 21-4 6-3 12 17-5 5 0 9-4 5 0 7-3 17-3 6-3 5 0 7-3 17-3 6-3 5 0 33-10 17-3 18-6 17-3 9-4 5 0 7-3 17-3 6-3 5 0 7-3 16-3 3-3 1-6 6-6 4 0 10-4 5 0 18-6 5 0 7-3 17-3 6-3 17-3 15-5 2 2 4-2 5 0 30-9 5 0 30-9 5 0 10-4 5 0 6-3 5 0 7-3 5 0 18-6 5 0 33-10 5 0 18-6 10-2 3-12-2-4 3-9 4-28 5-19zM312 310l-6-1-45 13-5 0-30 9-17 3-9 4-5 0-7 3-5 0-18 6-17 3-18 6-17 3-21 7-17 3-6 3-17 3-9 3 3 14 2 1 3-2 5 0 10-4 5 0 18-6 5 0 30-9 5 0 10-4 5 0 6-3 5 0 7-3 17-3 6-3 5 0 7-3 17-3 9-4 5 0 7-3 5 0 18-6 5 0 7-3 5 0 18-6 5 0 10-4 4 0-3-11zM624 214l-3 0-33 10-17 3-18 6-5 0-7 3-16 3-10 4-17 3-6 3-5 0-30 9-5 0-7 3-16 3-10 4 0 13 1 2 66-18 17-3 6-3 5 0 7-3 17-3 6-3 5 0 33-10 5 0 30-9 5 0 5-2z"/>
<path fill="#00bca1" d="M1053 329l-578 149-8 51-4 13-2 14-3 2-2 13 19-6 17-3 6-3 17-3 18-6 17-3 21-7 17-3 6-3 5 0 7-3 17-3 6-3 17-3 21-7 5 0 30-9 17-3 21-7 17-3 6-3 5 0 7-3 5 0 18-6 5 0 7-3 5 0 10-4 4 0 5-2 1-7 6-7 5 0 7-3 17-3 6-3 5 0 33-10 5 0 30-9 17-3 6-3 3 0 2 2 22-7 5 0 6-3 5 0 7-3 16-3 3-3 2-8-1-10 9-42zM424 268l-4-1-13 4-5 0-18 6-5 0-30 9-17 3-9 4-5 0-7 3-5 0-18 6-17 3-18 6-17 3-9 4-5 0-7 3-17 3-6 3-5 0-30 9-17 3-21 7-5 0-30 9-5 0-30 9-8 1 2 13 2 3 7-3 17-3 6-3 5 0 7-3 17-3 9-4 17-3 18-6 5 0 30-9 17-3 9-4 5 0 7-3 17-3 6-3 5 0 7-3 17-3 6-3 5 0 33-10 5 0 30-9 17-3 9-4 5 0 7-3 17-3 6-3 5 0 5-2-2-11zM622 202l-9 1-7 3-5 0-18 6-5 0-7 3-11 2-2 3 2 13 4 0 7-3 5 0 7-3 5 0 18-6 5 0 10-4 4 0z"/>
<path fill="#00c39e" d="M1053 329l-578 149-8 51-4 16-3 2-2 13 4 0 18-6 5 0 7-3 5 0 33-10 5 0 6-3 17-3 18-6 17-3 21-7 17-3 6-3 5 0 7-3 17-3 6-3 5 0 7-3 17-3 9-4 17-3 53-15 17-3 9-4 5 0 7-3 17-3 6-3 5 0 7-3 17-3 6-3 17-3 21-7 5 0 30-9 17-3 6-3 7-1 2-10 4-4 56-14 5-31 5-19zM564 218l-4-1-24 7-5 0-21 7-5 0-7 3-5 0-18 6-17 3-18 6-17 3-9 4-17 3-18 6-17 3-18 6-5 0-7 3-16 3-10 4-17 3-6 3-5 0-7 3-17 3-6 3-17 3-21 7-17 3-18 6-17 3-18 6-5 0-7 3-16 3-10 4-5 0-18 6-5 0-7 3-5 0-7 3-15 3 1 13 2 3 13-4 5 0 6-3 5 0 7-3 17-3 6-3 17-3 21-7 5 0 30-9 17-3 6-3 5 0 7-3 17-3 9-4 5 0 7-3 5 0 18-6 17-3 18-6 17-3 9-4 5 0 7-3 17-3 6-3 5 0 7-3 17-3 6-3 17-3 21-7 5 0 30-9 17-3 6-3 17-3 10-4 5 0 6-3 17-3 10-3-2-12z"/>
<path fill="#00ca9a" d="M1053 329l-578 149-9 55-4 4-2 13 31-9 5 0 10-4 5 0 6-3 5 0 7-3 17-3 6-3 5 0 30-9 17-3 21-7 5 0 18-6 5 0 7-3 17-3 6-3 5 0 7-3 17-3 9-4 17-3 18-6 17-3 18-6 5 0 7-3 16-3 10-4 17-3 6-3 17-3 18-6 5 0 30-9 5 0 10-4 5 0 6-3 5 0 7-3 5 0 18-6 5 0 7-3 5 0 18-6 5 0 10-4 8-1 3-4 0-17 7-31zM620 189l-7 0-6 3-5 0-33 10-5 0-7 3-5 0-18 6-17 3-18 6-17 3-9 4-5 0-7 3-17 3-6 3-17 3-7 3-16 3-7 3-5 0-18 6-5 0-33 10-17 3-6 3-5 0-7 3-17 3-6 3-17 3-21 7-17 3-18 6-5 0-30 9-5 0-30 9-5 0-21 7-5 0-30 9-5 0-7 3-19 4 3 16 4 0 18-6 5 0 30-9 5 0 10-4 5 0 6-3 5 0 7-3 17-3 6-3 5 0 30-9 17-3 21-7 17-3 6-3 5 0 7-3 17-3 6-3 17-3 21-7 5 0 7-3 5 0 18-6 17-3 18-6 17-3 9-4 5 0 7-3 17-3 6-3 5 0 7-3 17-3 6-3 17-3 21-7 5 0 30-9 17-3 6-3 5 0 7-3 17-3 4-2z"/>
<path fill="#00d197" d="M1053 329l-578 149-7 44-3 2-3 14 16-3 30-9 5 0 30-9 5 0 9-4 5 0 7-3 17-3 6-3 5 0 7-3 17-3 6-3 5 0 7-3 17-3 21-7 5 0 18-6 5 0 30-9 17-3 6-3 5 0 7-3 17-3 9-4 17-3 18-6 17-3 18-6 5 0 30-9 5 0 10-4 5 0 6-3 5 0 7-3 5 0 18-6 5 0 7-3 5 0 18-6 5 0 33-10 8-1 3-4 1-11-2-1 6-25zM618 175l-1-1-21 7-5 0-7 3-5 0-18 6-17 3-18 6-17 3-18 6-17 3-21 7-5 0-18 6-5 0-7 3-17 3-6 3-17 3-18 6-17 3-10 4-16 3-7 3-5 0-30 9-5 0-18 6-17 3-6 3-17 3-10 4-16 3-7 3-5 0-30 9-5 0-18 6-17 3-44 13-23 5-2 3 2 12 2 2 24-7 5 0 18-6 5 0 7-3 16-3 10-4 17-3 6-3 5 0 7-3 17-3 6-3 5 0 30-9 17-3 21-7 17-3 6-3 5 0 7-3 17-3 6-3 5 0 7-3 17-3 21-7 5 0 18-6 5 0 30-9 17-3 6-3 5 0 7-3 17-3 9-4 5 0 30-9 5 0 30-9 5 0 30-9 5 0 10-4 5 0 6-3 7-1z"/>
<path fill="#00d893" d="M470 524l-5 0-3 14 3 0 1-9zM1049 361l-44 11-7 3-17 3-6 3-5 0-7 3-17 3-6 3-17 3-18 6-5 0-33 10-17 3-18 6-17 3-18 6-17 3-6 3-5 0-7 3-17 3-9 4-17 3-13 5-3 14 33-8 7-3 5 0 7-3 5 0 18-6 17-3 21-7 17-3 6-3 17-3 18-6 17-3 18-6 17-3 21-7 17-3 6-3 5 0 7-3 17-3 6-3 5 0 7-3 17-3 6-3 7-1zM37 325l-3 1 3 14 2 2 2-2-3-11 3-3zM615 161l-3 0-30 9-5 0-30 9-5 0-10 4-5 0-18 6-17 3-6 3-5 0-7 3-5 0-18 6-17 3-18 6-17 3-21 7-5 0-30 9-17 3-6 3-5 0-7 3-17 3-6 3-5 0-6 2-2 3 1 12 2 3 7-3 17-3 6-3 5 0 7-3 16-3 10-4 17-3 18-6 17-3 6-3 5 0 7-3 17-3 6-3 5 0 7-3 17-3 9-4 5 0 7-3 5 0 18-6 17-3 18-6 17-3 18-6 17-3 9-4 5 0 8-3z"/>
<path fill="#00df8f" d="M712 450l-4-1-7 3-17 3-53 15-17 3-18 6-5 0-21 7-5 0-30 9-5 0-30 9-5 0-7 3-16 3-5 2-2 15 28-8 5 0 6-3 5 0 7-3 17-3 9-4 17-3 18-6 17-3 18-6 17-3 6-3 5 0 7-3 17-3 21-7 16-3 5-2 2-10 4-2zM1052 349l-74 19-3 5-1 11 7-3 5 0 7-3 5 0 18-6 5 0 7-3 5 0 10-4 4 0 3-4zM278 250l-10 0-56 16-17 3-18 6-5 0-30 9-17 3-6 3-5 0-7 3-17 3-21 7-5 0-18 6-5 0-9 3 2 14 2 3 7-3 5 0 7-3 16-3 10-4 17-3 6-3 5 0 7-3 5 0 18-6 17-3 18-6 17-3 21-7 17-3 6-3 5 0 7-3 17-3 6-3 7-1-2-13zM613 147l-73 18-2 3 2 15 76-19z"/>
<path fill="#00e68c" d="M982 369l-7-1-7 3-5 0-18 6-5 0-30 9-5 0-10 4-5 0-6 3-5 0-7 3-17 3-6 3-17 3-18 6-5 0-7 3-5 0-18 6-17 3-18 6-17 3-21 7-17 3-6 3-5 0-7 3-17 3-6 3-17 3-18 6-5 0-30 9-5 0-7 3-16 3-10 4-17 3-6 3-5 0-7 3-17 3-6 3-5 0-8 3-2 15 44-11 7-3 17-3 18-6 17-3 21-7 17-3 6-3 5 0 7-3 17-3 6-3 17-3 18-6 17-3 18-6 17-3 9-4 5 0 7-3 17-3 6-3 5 0 7-3 17-3 6-3 5 0 7-3 17-3 6-3 5 0 30-9 5 0 33-10 17-3 6-3 5 0 7-3 19-4 1-9zM544 166l-4-1-16 5-5 0-21 7-17 3-6 3-17 3-18 6-5 0-7 3-5 0-18 6-17 3-18 6-17 3-21 7-17 3-6 3-5 0-7 3-17 3-6 3-17 3-18 6-17 3-18 6-17 3-18 6-17 3-9 4-5 0-7 3-17 3-6 3-5 0-30 9-5 0-30 9-8 1 3 18 8-3 5 0 33-10 5 0 6-3 5 0 7-3 17-3 6-3 5 0 7-3 17-3 6-3 5 0 7-3 17-3 6-3 17-3 21-7 17-3 18-6 17-3 6-3 5 0 7-3 17-3 6-3 5 0 7-3 17-3 6-3 17-3 21-7 5 0 7-3 5 0 18-6 17-3 18-6 17-3 6-3 5 0 7-3 17-3 6-3 5 0 11-4-2-13z"/>
<path fill="#00ed88" d="M1054 336l-17 5-5 0-6 3-5 0-7 3-5 0-18 6-17 3-21 7-17 3-18 6-17 3-6 3-5 0-7 3-17 3-6 3-17 3-18 6-17 3-18 6-17 3-56 16-17 3-6 3-5 0-7 3-17 3-6 3-17 3-18 6-17 3-18 6-17 3-56 16-17 3-6 3-17 3-5 2-2 16 8-3 5 0 6-3 5 0 7-3 17-3 6-3 17-3 21-7 17-3 18-6 17-3 18-6 17-3 6-3 5 0 7-3 17-3 6-3 5 0 7-3 17-3 9-4 5 0 7-3 5 0 18-6 17-3 18-6 17-3 18-6 17-3 6-3 5 0 7-3 17-3 6-3 5 0 33-10 5 0 7-3 5 0 18-6 17-3 18-6 17-3 18-6 19-4zM611 133l-4-1-6 3-5 0-7 3-17 3-6 3-17 3-21 7-17 3-18 6-5 0-7 3-5 0-18 6-17 3-18 6-17 3-6 3-5 0-7 3-17 3-6 3-17 3-21 7-17 3-18 6-5 0-7 3-5 0-18 6-17 3-18 6-17 3-6 3-5 0-7 3-17 3-6 3-17 3-18 6-17 3-21 7-5 0-30 9-17 3-11 4 3 17 7-1 18-6 5 0 30-9 17-3 6-3 5 0 7-3 17-3 9-4 5 0 7-3 5 0 18-6 17-3 18-6 17-3 18-6 17-3 6-3 5 0 7-3 17-3 6-3 17-3 21-7 5 0 7-3 5 0 18-6 17-3 18-6 17-3 18-6 17-3 6-3 17-3 21-7 5 0 7-3 5 0 18-6 17-3 18-6 17-3 7-3z"/>
<path fill="#00f485" d="M1056 326l-28 8-5 0-7 3-5 0-6 3-5 0-7 3-17 3-6 3-17 3-18 6-17 3-21 7-17 3-6 3-5 0-7 3-17 3-6 3-5 0-7 3-17 3-6 3-5 0-7 3-17 3-6 3-4 0-3 13 16-3 7-3 5 0 30-9 5 0 30-9 5 0 6-3 5 0 19-6 5 0 6-3 5 0 7-3 17-3 6-3 5 0 33-10 5 0 30-9 17-3 6-3 17-3 5-2zM609 121l-4 0-18 6-5 0-7 3-5 0-30 9-5 0-30 9-5 0-18 6-17 3-6 3-5 0-7 3-17 3-6 3-5 0-33 10-17 3-18 6-5 0-7 3-16 3-5 2 2 14 7-1 21-7 17-3 6-3 5 0 7-3 17-3 6-3 5 0 7-3 17-3 6-3 5 0 7-3 17-3 6-3 17-3 18-6 17-3 21-7 17-3 6-3 5 0 7-3 17-3 6-3 4 0z"/>
<path fill="#00fb81" d="M768 401l-16 3-30 9-5 0-30 9-5 0-30 9-5 0-21 7-5 0-18 6-5 0-7 3-17 3-6 3-17 3-53 15-17 3-8 3-2 13 17-5 5 0 6-3 5 0 7-3 5 0 7-3 5 0 6-3 5 0 33-10 17-3 18-6 17-3 18-6 17-3 6-3 5 0 7-3 17-3 6-3 5 0 7-3 17-3 6-3 17-3 13-4zM321 195l-17 5-5 0-6 3-5 0-7 3-5 0-7 3-5 0-6 3-5 0-7 3-17 3-6 3-5 0-7 3-17 3-6 3-17 3-18 6-5 0-33 10-17 3-6 3-5 0-7 3-17 3-6 3-5 0-7 3-19 4 3 14 4 0 6-3 5 0 7-3 17-3 6-3 17-3 21-7 17-3 18-6 17-3 6-3 5 0 7-3 17-3 6-3 5 0 7-3 17-3 6-3 5 0 7-3 17-3 6-3 5 0 30-9 5 0 8-3z"/>
</g>
<g clip-path="url(#f5c)"><use href="#f5s" filter="url(#sb)"/></g>
</g>
<g font-size="8.2" fill="#222">
<text x="485" y="348.2" text-anchor="middle">Function Topology</text>
<text x="348.6" y="506.4" text-anchor="end">0</text>
<text x="348.6" y="478.4" text-anchor="end">0.5</text>
<text x="348.6" y="450.3" text-anchor="end">1</text>
<text x="348.6" y="422.3" text-anchor="end">1.5</text>
<text x="348.6" y="394.2" text-anchor="end">2</text>
<text x="459.9" y="566.8" text-anchor="end">-200</text>
<text x="431.9" y="554" text-anchor="end">-100</text>
<text x="404" y="541.1" text-anchor="end">0</text>
<text x="376" y="528.3" text-anchor="end">100</text>
<text x="348.1" y="515.4" text-anchor="end">200</text>
<text x="470.9" y="567.6">-200</text>
<text x="507.3" y="557.7">-100</text>
<text x="543.7" y="547.9">0</text>
<text x="580.1" y="538">100</text>
<text x="616.5" y="528.2">200</text>
<text x="404" y="570.6" text-anchor="middle">x<tspan font-size="6.4" dy="2.5">2</tspan></text>
<text x="534.7" y="573.5" text-anchor="middle">x<tspan font-size="6.4" dy="2.5">1</tspan></text>
<text transform="translate(329.1,449.3) rotate(-90)" text-anchor="middle" xml:space="preserve">F5( x<tspan font-size="6.4" dy="2.5">1</tspan><tspan dy="-2.5"> , x</tspan><tspan font-size="6.4" dy="2.5">2</tspan><tspan dy="-2.5"> )</tspan></text>
<text x="354.6" y="377.2">x 10<tspan font-size="6.4" dy="-6.1">11</tspan></text>
</g>
<g font-family="Liberation Serif, Times New Roman, serif" fill="#000" stroke="#000" stroke-width=".5">
<text transform="translate(470.3 641.8) scale(.875 1)" font-size="46" font-style="italic">F</text>
<text transform="translate(493 651.5) scale(1.15 1)" font-size="31.3">5</text>
</g>
</g>
<g id="f7">
<path d="M806.9 554.3L694.8 502.9M694.8 502.9L694.8 390.6M843.4 544.4L731.3 493M731.3 493L731.3 380.7M880 534.6L767.8 483.1M767.8 483.1L767.8 370.8M916.5 524.7L804.4 473.3M804.4 473.3L804.4 361M953 514.8L840.9 463.4M840.9 463.4L840.9 351.1M806.9 554.3L953 514.8M953 514.8L953 402.5M750.9 528.6L896.9 489.1M896.9 489.1L896.9 376.8M694.8 502.9L840.9 463.4M840.9 463.4L840.9 351.1M694.8 502.9L840.9 463.4M840.9 463.4L953 514.8M694.8 474.8L840.9 435.3M840.9 435.3L953 486.8M694.8 446.7L840.9 407.2M840.9 407.2L953 458.7M694.8 418.6L840.9 379.2M840.9 379.2L953 430.6M694.8 390.6L840.9 351.1M840.9 351.1L953 402.5" fill="none" stroke="#e6e6e6" stroke-width="0.7"/>
<g transform="scale(.1)" fill="none" stroke-width="7">
<path stroke="#0021ef" d="M8727 5286l-31-10 7-2 24 12M8852 5247l-5 0 5 0M8421 5353l-15 1-1-8 40-3-24 10M8550 5317l-7 0 7 0M8614 5298l-1 0 1 0M8811 5245l-1 0 1 0M8899 5221l-1 0 1 0M8371 5362l-40-12-34-4 5-16 29 7 40 25M8450 5334l-11-5 18-1-7 6M8513 5315l-6-1 6 1M8652 5283l-17-3 20-6-3 9M8710 5262l-14 1 1-7 15 3-2 3M8753 5250l-12-6 4-14 29 0 5 16-26 4M8994 5185l-6-1 6 1M8563 5290l-20 2 0-11 21 6-1 3M8608 5279l-43-4-19 4-4-14 43 3 23 7 0 4M8715 5248l-14 2-14-15 35 9-7 4M8835 5223l-21-4 1-5 20 9M8934 5189l-5-1 9-2-4 3M8214 5370l-4 0 4 0M8786 5217l-13 1 6-4 7 3M8263 5345l-3-2 3 2M8438 5297l-19-8-61-8 22-11 50 4 13 9 50-2-2 8-53 8M8733 5225l-21-3 1-7 22 1-2 9M8791 5203l-7 0 3-13-37-2-8-23 15-9 19 0 11 9-10 15 31 4 63-8 8 4-88 23M8204 5350l-13 1 29-8-16 7M8272 5333l-12-1-4-7 23 2-7 6M8319 5322l-17-1-16-14 31 10 2 5M8365 5312l-21-3 5-5 13 1 3 7M8514 5268l-16 0 3-6 18 0-5 6M8670 5228l-77 2 36-21 48-2 12 9-19 12M8883 5165l-11 2 11-2M8233 5331l-11-1-10-9 1-16 32 6 1 10-13 10M8519 5254l-12-1 1-4 11 1 0 4M8852 5168l-16-4-13-10 26 7 3 7M8918 5150l-22-2-6-11 27 5 1 8M8102 5351l-4 0 4 0M8302 5298l-12 1-11-9-34-3-7-10-70 6-21-8 19-7 137-1 20-7 18 1-4 6-23 5-12 26M8437 5265l-14-1 2-21 35-14-33-3 11-9 24-5 9-10-70-2-8 10 24 13-40 4 11-15-30-4-4-12 26-7-25-5-1-6 39 2 23-5 13-10-24-7 4-13-26-5-9-10 1-13-24-4 4 9-23 19 36 3-6 6-53-3-10-10-30 3-3 14-38-1-15 9-119-23-2 6 27 17-3 19-28 19-23 1 12-16-39-1-16-8 2-13-14-9-28-4-10-10-33-3-13-9-57 3 16-8 6-10-5-5 46 5-1-11-58 0-39-10 0-9 6-13 59 4-5 14 93 11 9 10 33 0-4-18 68 0 22-6 0-8-35-15-37-2-54-22 37-23-39-2 18-11 5-13 50 7-3-18 18-1 16 9-10 14 61 1 2-5-31-4 14-13 68 3-28 20 9 9 26 2 1-15 70-16 75-30 14 9 58 8 13-3-31 11-74-2-2 15-43-4-4 10 21 7-4 5-24 2-22-7-11 11-24 5-14 9-27 4-3 5 42 1 0 12-82 10 6 11 28 5 4 11 15 8 43 1-9 15 0 12 30 7-6-14 10-16-19-18 4-5 41 5 17 8-20 30 34 6 8-12 54-7 10-12 57 5-25 10 0 9 25 2 18-8 7-20-24-18-61-13-4 6 8 11-37 15-26 1-18-7 10-9 44 4-6-8-28-8-41 2-42-13 5-14-14-8 44-20 16 4-8 14 1 12 12 9 44 7 48-19-60-9 8-14-8-12 35 0 113-26 3 11 39 2 20 7-8 15 24 18-14 6-39-2 6 19-48-6-15 9 89 16-3 8-40 13-14 26-23 5-14 22 59 9 3 7-38-1-10 11-25 5 1 9 49-1-1 13 31-1 3-14 93 11 73-15-3-10-38-2-22-7-8-10-25-5 6-7 38 1 0-16 22-5 48 6 3-11-19-7 7-3-3-17 40 8-14 16 30 4 7 11-2 5-37-1-69 16 1 9 67 6 13 22-31 2 5 4-12 9-40-3-13 11-31 1-41 13-7 13-22 6-17-1-1-12-9-9-24-1-11 10 13 9 7 10-16 15-30 3M8964 5123l-15-2 3-3 31-6-19 11M8394 5261l-68-8-2-8 86-2-16 18M8831 5142l-25-7 12-15 46 0-6 18-27 4M8545 5206l9-2-9 2M8950 5101l-11-6 11 6M8164 5299l-8 0 8 0M8599 5179l-2-1 2 1M8738 5147l-25 1 6-10 20 3-1 6M8867 5110l-16 1 12-15-2-4 23 10-17 8M8973 5079l-6-3 6 3M8015 5326l-10-4 10 4M8061 5316l-28-8 17-5 34 3-23 10M8127 5298l-38-6-14-18 27 3 26 17-1 4M8280 5257l-84-6 22-23 37 1 6-13 38 1 7-13 21 0 20 19-25 5-15 9-15-12-12 0-11 10-34 1-1 5 71 5-25 11M8831 5110l-39-2-17 8-33 0 11-10 58-6 21 4-1 6M8917 5085l-12-1 2-3 33-6-23 10M8546 5171l-15 2 10-4 1-11-7-8 45 10-1 10-33 1M8841 5083l-10-5 10 5M8901 5062l-42-2 17-9 21-1 4 12M8010 5292l-15 1 12-18 51 1-48 16M8146 5259l-17-2 4-20 30-2 0-16 17 0 12 9 0 4-26 4-4 14-16 9M8757 5092l-19 1-5-11-28-5-57 3 10-15-71-17-7-11-21-6 13-16-8-12 13-10 26-4 2-8-27-17 81 15-6 17-23 5-34 20 67 6 4 8-9 6 35 3 1 3-27 16 55 9 74-7-32 14-7 13M8087 5264l-25-1 4-13-5-11-47 12-5-10-22-7-11-9-5-15 50 3 7 8-3 3 29-7 25 5-13 15 48 0-24 12-3 15M8328 5198l-18-2 2-5 13 1 3 6M8549 5140l-45-4-17 8-18-3-3-7 89-17 20 7-26 16M8635 5116l-66-2 13-23 30-1 2 12 19 7 2 7M8828 5060l-26 3-9-10 15-4 22 6-2 5M8243 5207l-19 0-1-9 23 3-3 6M8654 5092l-10 2 4-4 6 2M8850 5039l-7-3 7 3M7894 5287l-11 0 2-13 40-11-10 17-21 7M7970 5274l-20-5 1-13 4-5 36-6-21 29M8112 5227l-6 0 4-17 28-4-2 16-24 5M8183 5212l-17-2 0-6 23 0-6 8M8245 5192l-16 1 7-5 12 0-3 4M8308 5173l-4-2 5-13 52 0-3 7-50 8M8755 5059l-26-1-7-10 10-3 23 6 0 8M8811 5037l7-3-7 3M8277 5175l-29 1 4-12 32 2-7 9M8540 5104l-19-2-1-7 22 2-2 7M8623 5078l-16 1 4-6 14 1-2 4M8195 5185l-30 1 12-9 17 1 1 7M8808 5019l-14-6 19-2-5 8M8576 5073l-28-3 5-8 28 0-5 11M8700 5034l-21 1 9-7 31-4-19 10M8762 5014l-13 2-15-8-47 0 56-19 7 2-5 14 20 7-3 2M8826 4996l-1 0 1 0M7867 5243l10-4-10 4M7911 5231l-38-3-14-8 31-15 60-10-6 19-23 5-10 12M8028 5205l-19-1 3-7 25-1-9 9M8476 5078l7-2-7 2M8793 4997l-9-3 9 3M8084 5171l13 1 4-5-31-7-2 3 16 8M8171 5135l25 3-6-20-7-2-20 9 8 10M7773 5231l-16 4 10-6 6 2M7954 5187l-17-1-9-11 27 7-1 5M7993 5173l-34-5 3-10 21 4 10 11M8468 5043l17-5-11-9-58 3 17 8 35 3M7781 5219l-11 0 11 0M7835 5212l-24-4-7-10 36 2-5 12M7895 5192l-25 0-11-9-1-8 37 10 0 7M8179 5109l18-5-18 5M8484 5026l32 3-2-11-10-9-47-7-29 15 44 0 12 9M8084 5122l11-3-13-1 2 4M8120 5112l21 1 3-7-10-10-28 0-3 9 17 7M7747 5203l-12 1 5-4 12 0-5 3M7821 5189l-35-11-1-5 15 1 21 15M7925 5157l-92-4-27-5 7-14-38-2 17-20 66-2-1 12 11 9-32 2 0 7 21 2 12-10 79 15 2 6-25 4M8369 5033l19 1 1-7-16 1-4 5M8671 4957l-30 2-21-6 16-4 35 2 0 6M7688 5208l-6-2 6 2M7848 5170l-22-3 4-5 14 0 4 8M8077 5100l1-1-1 1M8384 5017l3-1-3 1M8520 4983l-40-5 12-8 15 1 15 8-2 4M8673 4941l-8 0 8 0M7693 5195l-24-10 24 10M7805 5166l-19 0-13-9 2-5 21-1 9 15M7932 5126l33 2 26-17-54 4-5 11M8550 4965l-55-3-2-7 46-11 10-12 8 1 32 18-36-1-3 15M7727 5162l-15-1 1-5 18-8 22 2-3 7-23 5M8469 4960l-20 2-36-15 13-15-74 7-3-2 31-17-48 9-8 12-19-1 4-14-39-1-24-18-55 2 3-11 23-6 67-1 5-8-25-5 8-9 25-1 15 21-9 10-28 3-4 10 32 4 14-10 62 2 9 10 77 3-19 18 28 17-5 4M8603 4925l-11-1 19-6-8 7M8067 5053l36-5 9-7-3-7 32-1-6-23-37 3-57-10-8 10 21 7 8 9-30 2-1 7 36 3 0 12M8497 4941l-9-4 11 0-2 4M7731 5132l-2-1 2 1M7935 5082l-18-1 17-16 38 2-14 10-23 5M8504 4928l-14-1 1-5 17 0-4 6M7651 5143l-6-2 8-1-2 3M7770 5118l-34 0 7-12 14-10-1-8-44 0 6-10 25-4 54 3-30 24 3 17M7986 5058l-23-1-3-11 30 3-4 9M7610 5141l-3-2 3 2M7702 5119l-24 2 13-7 11 5M7932 5065l-48-6-34 4 7-14-44-1 20-13 23 2 6 10 27-2 3-6-14-8 1-6 41 7 7 10 5 23M8230 4978l-23 1 28-8-5 7M8300 4962l-39-2-20 7-24-3-2-9 10-6-38-14 4-7 39-5-7 15 15 8 83 2 4 9-25 5M8469 4912l-12-6 12 6M8512 4899l-10 0 0-4 13 0-3 4M7706 5105l-16 1 9-5 26-3-19 7M7974 5036l-21-1-27-17-24-6 1-13-53-4-3 15-22-2 7-14-53-10 3-4 58 0 26 7 19-8 3-14 32-2 7-12 16 1 16 8-2 20-44-4-20 7 7 5 63 7-10 28 19 7 2 6M7633 5119l-20-4 1-4 12 0 7 8M7804 5070l-20-2-17-15 42 9-5 8M8149 4973l-15 1 6-6 18-1-9 6M8439 4898l-16-2-5-8 19 4 2 6M8479 4884l-11 0 19-5-8 5M8396 4894l-16 1 11-19 15 7-10 11M8436 4880l-4 1 4-1M7566 5105l-15 2 35-10-20 8M7679 5077l-9-4 9 4M7727 5066l-19-2 2-5 26-2-9 9M7783 5044l-1 0 1 0M8028 4981l-11 0 3-4 9 1-1 3M8079 4972l-21-2 2-6 70-14-51 22M8487 4856l-9-4 15 0-6 4M8122 4944l-53-2-16-7-1-7 75-1 27 5-32 12M8449 4855l-12 0-14-12 19-1 13 8-6 5M7508 5094l4-1-4 1M7562 5087l-27 0 23-7 4 7M7667 5055l-67 2 6-14 40 1 22 7-1 4M7734 5038l-20 0 0-9 7-5-24-3-31 6-1-5 9-12 45-11 11-11 23 3 2 8-20 21 9 10-10 8M7992 4964l11-10 19 1-1 7-29 2M8346 4871l-18 1 7-6 26-2-15 7M8136 4919l-46-5-23 4-10-20 20-6 60 20-1 7M8030 4934l-17-1-3-8 25 2-5 7M8159 4897l-18-8 22 4-4 4M8211 4889l-27-2 2-9 20 3 5 8M7539 5060l-40-13 4-3 29 7 7 9M7606 5043l-22-10 13-10 25 3-16 17M7858 4967l-18 0 6-5 16-1-4 6M7904 4956l-17-1 3-5 17-1-3 7M7948 4944l-21 0-4-11 31 4-6 7M8231 4867l-15-1-3-8 25 2-7 7M7555 5036l-10-1-13-10 30 5-7 6M7857 4951l0-1 0 1M7981 4928l-23-5 4-13-15-8-32-4 38-15 26-2-20 18 39 14 3 8-20 7M8102 4887l-23 4 16-7 7 3M8145 4875l-9-4 11 1-2 3M8296 4832l-1 0 1 0M7583 5017l-7-3 7 3M7669 4992l-14 1 0-7 16 3-2 3M7802 4957l-43-3-11 11-18-5-5-6 50-9 53 1-26 11M7923 4933l-48-12 35-9 13 21M8048 4894l-14-6 14 6M8216 4843l-9-4 13 1-4 3M7587 5002l-10-4 23-3-13 7M7696 4973l-13 0 4-5 13 1-4 4M7831 4938l-17 0 3-6 13 1 1 5M8090 4866l-9 0-3-6 22-5-5-5 14-8 11 1 3 6-11 11-22 6M8308 4806l-5 0 5 0M7600 4992l-18-4 19-11 17 1-1 6-17 8M7655 4970l-41-19 55 1-14 18M7699 4958l-9-11 27-8-2 10-16 9M8026 4868l17-8 14 0-31 8M8182 4828l-19-9 19 9M8246 4809l-3-1 3 1M8144 4826l-16 2 34-9-18 7M8209 4809l-6-1 6 1M7514 4985l-21-10 44 1-23 9M7718 4935l-55-10 44-7 11 17M8005 4859l-36-17 32-4-4 13 8 8M7824 4887l-8 1 2-3 29-5-23 7M7566 4945l20-7-20 7M7740 4897l-1 0 1 0M8025 4820l-7-3 7 3M7745 4883l-1 0 1 0"/>
<path stroke="#0042de" d="M8605 5390l-16-8 16 8M8777 5341l-3-1 3 1M8954 5294l-25-8 16-4 9 12M9018 5275l-20-7 20 7M8387 5433l-8 2 8-2M8474 5410l-62-21 4-6 39 2 6-14 38 2 14-11-51-11-56 11-32 17-24 5 5 8-3 9-11 11-14 0 1-13-16-7-42 4-10 22-19 5-9-10-53-22-26-6 6-9 31-1 0 13 43 7 5-20-47 0 14-16-42-1 6-14-35 5-7 7 22 6-6 7-66 0-17-22 2-15 16-12-59-8 9 9-2 11-41-3-4 5 14 8-3 6-109 0-2-3 22-6 2-9-17-8-55 3-16-9 16-9 48 6 15-17-44-1-35-11 4 18-42 1 28-20-66-7 7-8 42 3 3-9-42-1-2-9 23-5 43 4 6-9-38-6-41 13-74-2-24 5-2-11 5-4 94-4 4-14 17-9 29-2-2-6-14-2-16 9-29 3-18 7-5 14-20-4 1-12-39-2-43-28 49 6 6-13 39 2 1-5-15-9 1-12-91-12-6-11-25 3-13 7 25 6 3 10-57-8 22-8-6-8-63 4-6-15 19-7 4-7-44 0 20-18-51 2-1-10 28-3 4-14 12-9-90-11-12 11-37-12 3-4 43 3 9-11 57-6-10-10 10-6 34 0 3-6-15-8 4-6 40 3-3-8-26-6 15-16-17-8 8-5-14-18 23-10 12 1-2 13 24 6-14 16 60 1 4-7-28-4-21-19 4-5 21-2 7 11 54-3 21-18 0-5 25-4 80 5-9 15 34 12 5-22-37-15 0-12 10-9 20 1-3 13 17 2 12-22-39-2 5-19 61 13 12-11 45 5 36-6 32 5-8-12 3-6 23-6 106 1 17-17-3-11-20-7 7-12 53-8 62-1-9 9-44 12-21 11 21 7 15-11 43 4 30-29-27-5-5-11-41-1 16-15 31 2 33 16 10 9 1 12 12 1 10-11 26-3 8 11 88 0-11 11-42-4 0 8 72 17 71 5-6-11-26-5-5-11-52-10 14-9 50 4-3 13 17 8 28 1 16-9 18 3-23 11-1 8 27 5-32 21 40 1-4 11-15 7 52 10 16-9 2-8-8-10 55-15-19 30 17 9-38 14-33 1-33 24 42 12 76-13 73 10 21 17-19 8 8 9 24 6 22-7 12-10 36 10-1 13 8 13-14 9 3 3 67-5-22 18 31 4-1 12 17 20 29 5 30-18 19 4-18 28-44-4-1 16-28 9 81-17 73 25 32 3 39 14-31 10-10-11-14 0-6 13-50-7-15 17 138 0 6 10-13 26-25-3 5-14-9-10-28 1 9 36-31 1-37-16 14 10-8 15 87 13-25 9-5 14-50-1 7-14-7-11-40 16-63 3 7 7-15 22-22 6-14 11 20 7-45 12-9 11-30 19-46-5 2 16-29 1-10-10 8-5-4-8-33-9-12 21 28 5-34 14-4 9 11 10-56 2 14-16-5-11-43-1-14-5 10 6 3 15-40 14-18-2 2-13-18-1-14 10 7 10 39 2 17 17-52 8-4 14-37-1-11 10 16 9M8609 5375l-23 4-11-10 21-5 15 8-2 3M8788 5330l-15-7 25-1-10 8M8849 5310l-17 2 10-5 7 3M8894 5298l-8-3 10 0-2 3M8414 5414l7-3-7 3M8725 5333l-11-1 11-3 0 4M8791 5315l-7-2 7 2M8853 5295l-6-2 6 2M8969 5269l-14-2 1-4 13 0 0 6M9124 5228l-16-7 12 1 4 6M9182 5207l-5 0 5 0M8334 5425l-11 0 3-4 8 4M8601 5356l-15-2-1-5 25-1-9 8M9040 5237l-17-1-5-9 38 0-16 10M8934 5253l-15-1 4-20 39-14 48 10-12 6-33 1-21 7-10 11M8822 5266l14 6-14-6M8171 5430l-8 2 8-2M8618 5309l24 1 5-9-23 1-6 7M8734 5278l14 1 0-5-27-7 13 11M9093 5182l-10 1 22-11 15 1 1 6-28 3M8179 5418l-8-4 11 0-3 4M8314 5379l29 2 1-10-11-10-49-7 7 7-1 12 24 6M8758 5259l19 2 2-8-17 1-4 5M8831 5239l54-9-1-5-14-1-18 8-43-5-20 7 0 4 42 1M9164 5151l-6 0 6 0M8116 5421l-6-3 6 3M8264 5380l10 1 16-8-26 7M8417 5339l8 0 1-15-80-5 16 10 40 1 15 9M8564 5299l41-11-27-7-3 15-11 3M8876 5215l20-6-21 1 1 5M8959 5192l21 2-5-6-12-1-4 5M8147 5403l-19 2 8-7 17 0-6 5M8427 5324l27-4 11-7-24 1-14 10M8476 5310l22-5-24-8-9 4 11 9M8664 5260l7-2-7 2M8838 5213l12 1 5-6-23-2 6 7M8904 5195l9-2-9 2M8965 5178l15 0 4-5-34-9-4 7 19 7M8113 5403l-28 1 0-12-23-6-1-7 57 4-9 14 4 6M8515 5288l8-2-8 2M8617 5260l17-4-17 4M8908 5181l15-4-27-5 12 9M8232 5352l17 2-5-5-12 3M8390 5309l9-2-14-2 5 4M8524 5273l1 0-1 0M8584 5257l18 3-6-6-17-4 5 7M8630 5244l25-6-33 0 8 6M9014 5141l21-6-11-1-10 7M8388 5298l14-1-14 1M8898 5160l10 1 1-4-13-1 2 4M8269 5317l5 1-5-1M8312 5306l9 1 14-7-23 6M8797 5175l35-1-34-15-1 16M8027 5380l-23-3 4-6 14 1 5 8M8157 5335l39-5-11-6-25 5-3 6M8338 5287l10 1 1-17-24 6 13 10M8649 5202l1 0-1 0M8865 5144l8 1-8-1M7955 5379l-5-2 9-1-4 3M8020 5361l-1-1 1 1M8099 5339l13 0 3-5-16 5M8192 5314l9-15-35 9 26 6M8412 5254l3-1-3 1M8902 5122l22-1 13-9-35 10M7968 5369l-19-2 3-6 14 1 2 7M8030 5349l-16 0 2-6 18 1-4 5M8877 5116l13 5-13-5M8915 5106l23 5-10-9-16-3 3 7M8963 5093l9 2 10-7-24 0 5 5M7899 5369l-5-2 5 2M8137 5304l4 1-4-1M9083 5050l-52-8 2 8-6 6-36-7 18-17 52-2 9 10 23 6-10 4M8141 5291l8-2-23-7 15 9M8493 5195l2 0-2 0M7943 5332l17 1 0-6-13-8-23-2 19 15M8827 5093l-22-18-12 3 10 9 24 6M7967 5313l17-1 13-7-24 2-6 6M8009 5302l48-13-48 13M8722 5109l6-1-6 1M8850 5075l13 2 0-6-24-5 11 9M8113 5261l6 1-6-1M7916 5302l23 6-2-11-21 0 0 5M8665 5100l4-1-4 1M8011 5264l32-8-32 8M8821 5046l20 4-7-8-12 0-1 4M8946 5019l-27-13 45 1 9 8-27 4M7781 5315l-3 0 3 0M8152 5214l1 0-1 0M8833 5018l9-2-9 2M8930 4996l-20 1-10-10 3-4 37-6-8 4-2 15M7868 5266l15 0 18-8-12-10-7 1-14 17M8709 5039l5-1-5 1M8765 5024l21 1-4-6-17 5M7915 5241l18 0 5-6-23 6M7928 5226l13 3 12-10-25 7M8675 5024l7-2-21-7 5-13 47-10 8-13 25 1 29 8 8-6 2-12-115 2 12 13-2 8-39 15 34 16M8759 5001l15 3-3-6-12 3M8002 5193l24-5-24 5M8859 4963l-4-2 4 2M7707 5265l-12-1 12 1M7807 5221l19 3-3-7-16-2 0 6M8773 4961l13 1 3-6-24-4 8 9M8543 5010l2 1-2-1M7890 5175l15 5-8-7-7 2M8791 4932l-6-3 6 3M7614 5239l-24-8 7-2 17 10M7780 5192l12-3-14-3 2 6M8531 4989l5 1-5-1M8602 4958l3 0-3 0M7605 5218l-13 0-10-9 24 6-1 3M7735 5180l28-1-1-7-17-1-10 9M8562 4956l6-1-6 1M8604 4945l23-6-25 2 2 4M8632 4937l25-3 9-6-34-5 0 14M8742 4909l-46-1-18-7-2-6 49 5 21 6-4 3M8370 4996l3-1-3 1M8416 4984l28-8-28 8M7553 5194l-13-5 15 2-2 3M7667 5167l-13-2 15-4-2 6M7741 5141l12 1-1-4-11 3M8653 4901l-81 4 20-17 51-8 7-13 17 0 9 12-23 22M8713 4880l-6 0 6 0M7623 5163l-7-3 7 3M7707 5138l3 1-3-1M8700 4858l-3 1 3-1M7524 5165l-6 0 12-3-6 3M7640 5132l20 0 0-6-13 0-7 6M8480 4905l13 2-19-9 6 7M7486 5164l-11-6 11 6M8422 4908l15 5-8-7-16-4 9 6M8496 4888l28 1-2-8-15 0-11 7M7668 5100l21-6-21 6M8189 4959l-1 0 1 0M8450 4888l8 3-8-3M8452 4876l10-3-13-2 3 5M7512 5117l15 2-1-5-13-2-1 5M7604 5093l12 3 24-5 15-10-10-12-16 1-4 14-38-2 17 11M7695 5068l-2-1 2 1M7804 5039l2-1-2 1M8045 4973l1 0-1 0M8417 4873l5-2-5 2M8457 4862l7-2-7 2M8617 4820l-2-1 2 1M7517 5104l22-6-22 6M7808 5025l5-1-9-2 4 3M7873 5007l4 1-4-1M8006 4972l2-1-2 1M8048 4960l6-1-9-2 3 3M8093 4948l2-1-2 1M8351 4878l12 1 3-5-15 4M7683 5047l8 3-8-3M8561 4810l-6-2 6 2M7385 5117l-8-3 10 0-2 3M7428 5105l-4-2 4 2M7470 5092l27-7-29-10-3 6 5 11M7529 5076l14-4-20-3 6 7M7578 5063l6 2-5-3 11-15-24-6-12 10 1 6 23 6M7687 5033l2 0-2 0M7754 5015l1 0-1 0M8321 4862l7-2-7 2M8383 4845l22 5-4-9 5-14-18 0-7 6 2 12M7393 5105l-14-1 3-4 16-1-5 6M7626 5038l26-6-5-2-21 8M7868 4972l2 0-2 0M8218 4878l14-4-21-1 7 5M8113 4894l17 6-11-8-6 2M8316 4839l29 0 19-7-2-6-28-8-6 13-12 8M7356 5088l-11 1 11-1M7411 5081l-55-9 9-12 56 8-10 13M7522 5041l15 2-19-13 3-13-30 8 8 10 23 6M7654 5005l37-9-37 9M7767 4975l8-2-8 2M7828 4958l10-2-10 2M8011 4909l28-3-35-16 7 19M8118 4880l-14-8-68 6 26 7 22-6 34 1M8223 4852l12 0 1-4-13 4M8272 4838l2 0-2 0M8483 4790l-22-3 17-4 5 7M7686 4984l29-7-29 7M7928 4919l1 1-1-1M8266 4828l44-5 5-8-57 0-8 5 16 8M7551 5009l15-4-12-2-3 6M7842 4930l9 2 0-4-12-2 3 4M8214 4830l10-3-10 3M7512 5007l19 2 1-7-22-3 2 8M7848 4916l14-3 2-7-7-4 2-13-69 15-7 5 21 7 44 0M7882 4907l14-4-14 4M8133 4839l9-2-9 2M8273 4802l24-7-24 7M8422 4762l-8-3 8 3M7547 4985l23-6-23 6M7894 4892l34-10-30-4 1-12-19-1-13 10-5 13 32 4M8092 4838l8-2-8 2M8320 4779l-6-2 6 2M7294 5044l-5-1 5 1M7340 5033l-12-1-2-6 10-11 69-1-36 16-29 3M7590 4961l13 1-13-6 0 5M7637 4949l12-3-8-11-31-2 2 10 25 6M7681 4937l7-2-7 2M7958 4862l19 0 0-5-17-3-2 8M8013 4847l4 1-4-1M7437 4997l-66 2-13 10-36-12 25-9 37 1 39-14 12 4 2 18M8036 4825l-62-4-12-9 30-8-28-5-28-17 36-10 18 20 61 8-3 13-12 12M8310 4743l-4-2 4 2M7904 4844l-12-1 13-3-1 4M7667 4895l-11 0-5-7 28 0-12 7M7838 4846l-1 0 1 0M7907 4830l-6-3 28-6-22 9M7383 4957l-6-3 6 3M7427 4945l-4-2 4 2M7547 4920l-17-4-1-4 17 0 1 8M7580 4903l-2-1 2 1M7715 4870l-12 0-4-8 20 3-4 5M7848 4834l-15 0 4-4 11 0 0 4M8021 4786l-14 2 27-12 14 0 6 9-33 1M7328 4964l-8-4 8-1 0 5M7917 4802l-16 2 8-6 8 4M8070 4760l-20 4 10-8 13 1-3 3M7439 4918l-9 1 17-5-8 4M7553 4891l-21-10 21 10M8030 4758l-5-2 5 2M7486 4892l-1 0M7577 4867l-9 2M7666 4843l-14 4"/>
<path stroke="#0064cd" d="M8345 5469l-76-5-9-9 26-7-35-3-32-16-1-12-15-4-15 9-8 12-87 24-14-4 1-18 17-11-32-3-25-18-42-1-3-12-13-8-17 0-4 5 18 8-8 6-17 1-15-9-2-11-51 1-13-9-1-24-71-5 0-6 41 3 52-10-19-7-59 4-15-9-49 1-43-13-10-22-24-5-4-11-42-14-10-9-42-1-14-9 9-14-6-11 5-10 15-8-54 3-11-10-33-7 5 3-27 18-22-5-13-9 1-17 44 4-9-9-29-4-2-12-52 2-39-14 2-6 21-7 1-6-40-1-15-8-41-2 6-7 1-16 42 4 21-12-30-16-15 1-8 12-30 2-3-12-31-4-25 6-3-2 27-4-15-20 30-21 44 4 42-15-52-5-20 6-54-3-8-9 33-1 18-8 50 7 56-17-79-4 28-8 4-13-4-3 58-6 44-12 5-6-5-9 69-17 2-4M8415 5449l-1-3 20-2M8476 5433l-48-13-48 26-24 7 18 8M8544 5415l-5-8 29 1M8607 5398l-37-15-49 0 6 18-52 20 26 5M8701 5372l26-31-26-3-28 35-20 7-36-1-2 4 22 7M8752 5346l6 2-6-2M8871 5326l-57 0-4 5 10 9M8907 5317l8-9 27-4-9-7-17-4-13 10-39-2 2 15 30 4M9002 5291l-21 0-3 7M9074 5272l-6-6 11 4M9113 5261l2-5 15 0M9266 5220l-14-9 3-3 39 4M8211 5480l-17-8 17 8M8624 5369l35-3 0-7-27-5-13 10 5 5M8746 5336l17-5-22-7 5 12M9267 5198l-11 0 18-5-7 5M8316 5440l18 1 32-15-91 4 2 8 39 2M8377 5423l22 0-10-5-12 5M8872 5289l-13-6 13 6M8913 5278l27-6-27 6M9084 5232l13-4-11-1-2 5M8226 5455l-12 0 0-5 17 0-5 5M8348 5419l19 5-8-8-11 3M8570 5359l3-1-3 1M8698 5324l7-2-7 2M8767 5306l4 0-4 0M8985 5247l3-1-3 1M9114 5212l13 2-4-5-23-6 14 9M9163 5198l1-12-29-1 3 8 25 5M9283 5174l-26-1 10-7 26-3-10 11M8188 5454l-15 0 1-7 18 1-4 6M9034 5221l5-1-5 1M9199 5176l19 0 11-8-27 0-3 8M9107 5189l3-1-3 1M9173 5171l-3-11-40 7 10 5 33-1M8279 5400l3 0-3 0M8121 5431l18 0 20-10-14-3-24 13M8050 5438l-3-1 3 1M8166 5406l20-1-7-3-13 4M8022 5426l-50-4-1-4 20-7 22 0 9 15M9109 5115l15 1-3-4-12 3M8046 5390l2 0-2 0M9102 5092l14-4-19 0 5 4M9139 5082l16 1-14-7-2 6M9103 5080l13 1 2-5-15 4M9014 5067l56-7-15-7-45 11 4 3M7816 5379l29-8-29 8M7902 5355l5 2-5-2M7849 5362l-13-1-9-9 24 5-2 5M7784 5365l35-12-35 12M9099 5009l-7 0 7 0M8987 5025l10 1 4-4-14 0 0 3M7749 5348l-3-1 3 1M8937 5002l9-2-9 2M9031 4978l12-5-12 5M8944 4988l25-7-25 7M7730 5303l28 1 2-9-5-10-21 8-4 10M8948 4940l-23 4 16-7 10 0-3 3M7718 5258l12 2-1-5-11-1 0 4M8953 4926l-6 0 6 0M7599 5279l-4 0 4 0M8823 4947l38-10-58 0 20 10M7610 5268l-14-2-16-11 34 6-4 7M7672 5234l-6-11-21 5 27 6M7548 5256l-10 1 10-1M8752 4917l7-2-7 2M8846 4893l-5 0 5 0M7620 5211l-27-14 27 14M7496 5232l-18-7 18 7M7541 5221l-28-6-1-8 22 2 7 12M8742 4895l9-2-14-2 5 4M8705 4893l6-2-6 2M7555 5179l1 1-1-1M8768 4841l-4 0 4 0M8650 4859l17 0 8-7-18-7-23-1-13 11 29 4M7401 5173l3-2-3 2M7482 5150l18 4 2-9-20 5M7449 5134l8 0-3-13-30-2-26 4-14 17 18 1 16-9 31 2M8527 4831l15 3-4-6-11 3M8645 4801l-6 0 6 0M8536 4816l-5-3 5 3M7366 5096l28-8-28 8M8543 4754l-10 2 10-2M8432 4771l12 1-2-4-10 3M8511 4755l-11-3 11 3M8353 4780l9-3-27-7 18 10M7350 5038l4-1-4 1M8369 4763l22 1 0-7-17 0-5 6M7248 5054l30-2 6-20-22-3-19 7-3 8 8 10M7312 5036l1 0-1 0M7175 5037l-4-2 4 2M7371 4984l27-8-36 3 9 5M7436 4966l17 7-17-7M8137 4777l13-4-13 4M8221 4754l10 1-4-15-21 3-2 4 17 7M7639 4899l2 0-2 0M7725 4876l4-1-4 1M7872 4836l10-2 6-13 24-8-58-8 4 18 14 13M8077 4781l21-7 16-16-20-2-26 15 9 10M8350 4713l-11-3 12-3-1 6M7355 4964l11 1-11-1M7444 4940l8 0 4-14 14-6-48 7 0 6 22 7M7513 4921l2-1-2 1M7581 4890l23-6-15-8-25 4 17 10M7825 4824l3 0-3 0M7933 4795l9 3-9-3M8266 4707l-21 4-6-11 10-2 21 6-4 3M7854 4804l26-3 6-5-19-1-13 9M7183 4973l7 7-13-5M7282 4947l-10 6-36 6M7357 4926l2 4-20 6-15-1M7607 4859l19 1 0-6M7696 4835l14 8 54 1-42-16M7754 4819l36 5 7-4-22-7M7804 4806l15-1 11-6M7889 4783l26 3 36-20M7972 4760l49 10-6-9-22-6M8048 4740l49 11 43-6 12-27 24-1 9 10 45 11 36 1 0-16 20 1 13 9 44 1-2 7-21 7-45-5 0 9 9 11 69-16 70 0 4-12-42-1-3-6 19-7 18 4 30 17-22 7 5 9 95 4 16 8-38-1-2 7 32 4 1 12 61 8-23 18 22 8 9-12 41-3-4 13 32 16 36 3 5 11 35 3-12 15-1 13 19-1 12-11 14 12 31 3-8 27 24 2 20-7 18 1 9 9-27 6 62 34-14 4 6 11 24-7-8-10 22-5 27 4-7 14 37 2 5 8-24 22 74 4-3 11-22 8 28-5 48 7 28-5-3 16-45 21 44-5 32 9 40 2-7 14 20 7-4 5-33 1-6 13-28 12 26 3 14-10 70 0 20-7 22 10-36 16-38-8-45 2 6 8 18 8-1 12 12 4 37-5-10 15 9 10-11 7-39-2-1 21 27 17-2 5-20 7-38-1 0 16-27 3-52-8-8 13-34 16-6 12"/>
<path stroke="#0085bd" d="M8217 5503l17-12-5-4-52 2-1-12-46 0-65-19 4-13-26 6-37-1-16 9-28 3 6-13 30-22-94 1 6-14-40-13 11-8-26-13-26 5-25-3-34-16 1-7 19-10-54 2-7-12 31-2 0-5-72-12-5 9 18 7-2 5-45-5 2-12-6-5 24-5 16-12-33-3-3-24-42 10-106-19 34-21-13-9-18 2-11 11-24 1-24-6 15-10 4-14 29-3-8-8-61 9-10-5 9-12-52 2 19-17 26-7-36-3 5-14-15-1-41 13-29-13-22-19 0-12-33-3 5-26-43-1-7-10 1-7 35 0 3-16-54 3-43-26-28-4 18-17-35-3 5-14-23-6M8319 5475l-37 6-27 12M8401 5453l-7 2M8464 5436l-2 1M8251 5469l5-1-14-9-46 1 13 8 42 1M9245 5188l2 0-2 0M9301 5174l25 3-4-9-18-1-3 7M9347 5139l-23 4 15-8 13 0-5 4M8043 5483l-11-5 11 5M9243 5140l-12-7 12 7M9232 5106l13-3-19-8-28 8 34 3M7891 5445l-3-1 3 1M9231 5082l26 0 7-9-24 1-9 8M7843 5423l-5-2 5 2M9175 5060l-4-2 4 2M9143 5032l10-3-10 3M7812 5367l13-3-13 3M7751 5381l-18-5 10-2 8 7M7746 5363l-6-3 6 3M9038 4987l14 1 5-6-16 1-3 4M9126 4974l-22-10M8973 4968l1-1-1 1M7639 5314l-41-12 4-5 21-1 14 8 2 10M8960 4947l7 2-7-2M7571 5299l-22-10 11-1 11 11M8887 4930l8-2-8 2M7560 5276l23-6-14-4-9 10M8838 4906l32-2-2-6-47 0 17 8M8826 4885l9-2-9 2M7512 5228l17 3-26-12 9 9M8829 4872l11 2-1-5-18-7-34 4 1 5 41 1M8879 4860l-21 16 37 15 1 9-6 4 13 9 29 4 24-6 5 11 41 1 7 11 27 4-7 7-36 0-8 7 22 7 3 11 28-5 26 3 11 9 52-2 5 11-24 11 6 6 86 14-3 5-21 6-3 8 58 2 13 6-31 1-2 6 92 24 20 21-13 1-13-8-23 0-2 7 83 26 1 5-39-2-41 13-2 6 33 15 18 2 8-8-10-9 41 12 1 7-11 11-20 7 7 6-4 11-43-3-17 8 34 4M8735 4848l15 1-1-4-11-2-3 5M7358 5201l-11-5 11 5M7364 5188l-20-1-4-11 29 4-5 8M8669 4829l7 2 3-4-16-2 6 4M8744 4798l-21 7 0 22 13 9 20 0 10-9-11-8 33 3 17 7-18 17 87 12M7349 5149l1 0-1 0M8675 4783l-16 0 5-5 13 0-2 5M8576 4781l22-6-22 6M7277 5120l10-3-10 3M7210 5133l-11-5 12-11 20 3-1 6-20 7M8550 4763l16 1 5-6-19 0-2 5M8626 4744l-5-2M8479 4758l12-15-38-14 13 8-5 11-14 7 32 3M7169 5098l-20-5 31-8-11 13M7184 5047l19 3-6-7-13 4M7190 5033l31-9-13-4-21 7 3 6M7215 5014l10-3-10 3M8304 4720l23-1-1-5-12-1-10 7M8274 4715l16 3-5-6-11 3M7135 5011l25 3 23-5-7-9-16-2-22 6-3 7M7259 4965l20-5-20 5M8197 4712l17 3-5-7-12-1 0 5M7115 4992l29-1 13-11M8098 4726l2 0M8213 4695l66 2 41-6-4 13 14 0 10-11 33 8 1 12 10 0 13-10 26-4 21 7-2 13 42 1 36 15-4 13 53 2 5-5-7-11 7-2 25 6-7 6-5 22 53-3-20 10 2 20 34 3 5 11 37 2 4-14 36 0"/>
<path stroke="#00a6ac" d="M8189 5511l-56 3-4-8 23-10-17-2-30 18-8-1-5-11-47 0-23-18-20-2-17 9-22-3 5-14-19-7-34-3-3-7 20-10-24-8-6 13-24-3 7-14-43 6M9412 5180l-11-9 10-15-32-4-9-9-12 1 19 9 6 11-16 16 1 12M8107 5484l13 3-27-13 14 10M8012 5501l-16-8 20 3-4 5M8054 5473l7-1-7 1M9419 5108l-44 12 0 9 39 2 8 10-2 13 26 17M8014 5472l8-2-17-8-9 3 18 7M9335 5103l7 2-7-2M9325 5065l-1 4 15 8 5 11 44 6M9256 5051l13 4-7-6-6 2M9289 5048l-11 9 25-2M7816 5427l-1-12-52-22-45-13 9-14-1-12-88-13 1-13-42-2M9253 5032l2 7 18 2M7774 5378l12 3-12-3M9089 4973l0-1 0 1M7654 5353l50 7-14 9M9053 4940l-12 9 13 9 26-6M7572 5315l11-9-32-1M9023 4926l10 5M7589 5293l5-2-5 2M8971 4919l4-1-4 1M7544 5302l-6-8-31-16-15 0M8973 4903l10 5M7439 5254l0-7-39-11M8893 4866l27 18-2 13 12 2 19-7M8849 4846l14 7M7395 5234l29-3 1-4-106-28M8820 4833l-12 8 31 1M7305 5193l20-7-16-14-21-3-7 12M8758 4805l2 1M7257 5162l22 2 0-8-21-1-1 7M8701 4779l-1 5 11-1M7235 5160l4-6-13-9-37-14 2-13-58-5M8613 4759l10-3-10 3M7159 5126l3 1M7191 5094l4 0-4 0M7123 5109l28-3-15-10 5-11 30-10-64 5-16-8-3-11 11-16-37-2 32-33-38-2M8570 4719l-26 9 33-6M8488 4697l-9 0 9 0M7118 5028l2-1-2 1M8381 4664l-9 0 9 0M8237 4689l54-2 16-5-18-8M8345 4659l3 12 35 3-4 13 20 1 17-8 19 4 2 12 35 15 38-4 8-13"/>
<path stroke="#00c89b" d="M8113 5531l-20-7-23-18-96-7M8163 5518l-47-1-10 4 7 10M9475 5163l22-6M9500 5145l-4-2M9470 5131l-50-6 17 12 22 6-14 9 25 12M8013 5517l18 0-3 7M7907 5469l-12-6M7872 5453l-8-4M7769 5405l-5-2M7183 5136l-8-3M7115 5105l4-4-13-9-28-5-12-8-1-13-10-9-31-4 0-5 20-7 6-7-59 3 31-20M7020 5062l21-1 0 10M8465 4670l-40-2 40 18 14-9M8393 4671l18-5-18 5M6988 5047l13 0-4 4M8356 4656l11 1 4-5M8400 4645l10 0"/>
<path stroke="#00e98b" d="M8060 5539l29-1M8093 5537l-19-8-31 2M9509 5150l-1 4M7012 5058l-5-2M6977 5042l-2-1M6977 5029l9-2"/>
</g>
<path d="M694.8 502.9L806.9 554.3L953 514.8" fill="none" stroke="#666" stroke-width="0.9"/>
<path d="M694.8 502.9L694.8 390.6" fill="none" stroke="#666" stroke-width="0.9"/>
<path d="M806.9 554.3l-2.9 0.8M750.9 528.6l-2.9 0.8M694.8 502.9l-2.9 0.8M806.9 554.3l2.7 1.3M843.4 544.4l2.7 1.3M880 534.6l2.7 1.3M916.5 524.7l2.7 1.3M953 514.8l2.7 1.3M694.8 502.9l-2.9 0.8M694.8 474.8l-2.9 0.8M694.8 446.7l-2.9 0.8M694.8 418.6l-2.9 0.8M694.8 390.6l-2.9 0.8" fill="none" stroke="#666" stroke-width="0.9"/>
<g transform="translate(688,345) scale(0.25)" fill-rule="evenodd">
<path fill="#0005fc" d="M625 589l-3 1-1 7-3 4 2 9 4 2 5-1 3-13-4-8zM754 569l-4 3 1 5 3 1 4-3-1-5zM732 564l-3 1-3 8 0 6 4 3 3-1 3-10-1-6zM719 561l-5 4-1 15 4 3 5-3 1-16zM754 534l-9 7-3 10 1 8 5 8 3 1 3-1 2-5 2-25zM675 525l-4 2-8 16 2 32 4 3 3-1 3-6 4 3 5-3 4 3 4-3-1-6-6-1-6-36zM703 516l-4 3-4 51 4 3 9-6 2-6-3-42zM640 514l-3 1-7 17-7 3-3 16 2 6 4 2-2 13 1 2 6 1 2 18 3 1 4-3 5 4 3-1 2-6 4-2 4-12-4-4 2-13-4-3-4 3-2 9 1 5-2 3-3-37 2-5 5 0 1-8-2-7-4 0zM587 502l-4 3-4 16 3 6-7 1 0 6-6 12-1 9-5-2-3 1-2 9-7 1-4 13 3 12 6 0 5-12 3-1 5-7 5 19 5 3 3 8 3 1 4-3-4-32 3-4 7 20 4 2 5-4 4 16 6 0 4-4 1-4-2-6 3-3-1-4-3-1-6-23-6 0-2 3-8-11-3-37zM559 475l-4 3 1 17 4 3-4 27 2 4 5 3 3-1 2-4 0-6 4-5-3-24-5-4-1-10zM501 465l-4 3-1 14 6 4 6-5 2-6-5-8zM535 447l-3 1-14 36 0 7 4 3 5 10 2 16-1 3-4-3-3 1-3 20 6 12 3 1 3-1 2-5 6 0 3-5-3-8-3-33 4-52z"/>
<path fill="#0010f7" d="M480 695l-4 3 0 6 3-3 2 6 1-4 3-1 0-3zM636 692l-3-1-5 2-3 9 1 5 8-9 2 5 2-4zM656 688l-4 3 0 7 2-9 3 12 7-9 2 1 0 2-1-4zM674 673l-4 3 1 4 3 1 4-3-1-4zM722 665l-5-2-3 1-10 19 2 3 9-1 4-16 2 3 2-2zM675 662l-4 3 1 5 3 1 4-3-1-5zM388 653l-6 0 0 9 3-3 3 3zM602 594l-4 3 1 6 3 1 4-3-1-6zM592 562l-3 1-5 20 1 11-3-1 0 7 3 7 3 1 3-1 4-11 5-7 0-6zM745 551l-4 3 1 18 2 5 10-1 1 17 2 3-1 4 4 3 4-2 4-8 4-31-4-3-3 1-2 5-6 2-4-7-2 5-6-9zM834 526l-4 3-6 25 1 5 3 1 5-1 3-5 2-25zM380 520l-3 1-1 5 2 4 3 1 3-1 1-5-2-4zM807 516l-4 3 2 34 4 3 3-1 3-5 4-24-2-8zM549 515l-4 3 1 4 3 1 4-3-1-4zM779 495l-4 3-3 35 3 5-2 20 4 3 3-1 5-10-3-11 3-2 3-7-4-29-2-5zM661 495l-4 3-1 10-8 4-6 13 4 21 2 4 4 2-2 14 0-4 2 0 0 6-3 1 0 2 5 3 1 3 2-1 3 8 3 1 8-5 1-5-2-3 0 2-2 0-4-28 5-36-5-14zM533 484l-2 7 3 36-2 0-1-18-3-10 3 30-4 0-1-6-6 0-4 14 2 4 4 0-1-5 3-13 4 24-1 4-3-6 2 6 5 0 2 4 9 2 4-3 3-17-2-5-6-1 3-31-5-4zM534 527l1 9 3 6-3 4-2-9zM554 468l-4 3 2 17 5 1 0 5 4 3 3-1 2-11-9-16zM692 467l-4 3 5 61-2 3-3-11-6 0-5 10 2 18-3 8 2 8 0-12 2 0 3 12-3 3 6 2 2 4 4 1 7-2-2 5-6 0-2 4 0 5 4 3 14-11 3-22 8-11 2 19-2 3 2 9 4 2 3-1 4-10 1 9 5-4 1-8-2-4-5 0-1-2 3-28 5-1 1-11-4-44-6 0-7 9-2-5-6 0-1 5 3 3-4 3-1 9 3 5-5 4-5-25-9-17zM703 519l4 41-1 4-7 6-1-9zM338 465l-4 3 1 5 3 1 4-3-1-5zM385 461l-4 3-3 17 1 8-1 1-3-6-3-1-4 3 3 18 6 0 2-3 2 10 4 3 4-3-2-19 2-28zM418 453l-4 3 2 19-2 5 4 3-4 2-1 5 4 3 3-1 1-8 7 8 2 14 4 1 4-3 1-17 2-5-1-2-5 0-14-26zM579 444l-4 3 2 39-5 1-5 9 3 16-1 3-3 1-1 10-2 3-3-4-2 2 1 12-4 29 3 10 2 1 4-3 1-7-3 3-1-9 2-7 2 10 7-39 1-1 5 4 3-1 1-9 3 1 1 4 2-10 4 30 10 14 5-7 2 5 2-4-2-20 4-30-4-3-4 3-2-9-4-3-3 1-2 5-6 1-3-8 3-5 1-14-6-24zM587 505l1 6-3 7-1-4zM632 440l-4 3 2 7-1 7-5 4 1 4 3 1-5 4-5 25 3 7 3 36-2 21 4 11-3 26 1 2 1-6 4 5-1 3 4-3 2 9 6 5 4-3 3-12-1-3 4-2 1-4-4-3 0 6-2 2 0-11-3-2-6 12-3-23-1 4-2-1 0-3 0 2-2 0 5-31-1-5 6-11-1-17 2-11-1-7-3-1-5 2-1-13 2-2 4 3 4-3-2-23-2-3 1-5zM628 536l-3 19-2-9 2-8zM653 434l-3 1-8 27 3 33 4 3 4-3 7-36-2-19-2-5zM485 435l-1 7 2 16 6 0 2-3 1 10 6 0 2-5-1-8 2-3 0-4-3-3 4-3-1-4-6 0-1 4 3 3-4 3 1 5-2 3-2-3-2-15zM540 426l-4 3-3 21 1 2 1-2 1 5 4 7 4 2 3-1 1-5-4-29z"/>
<path fill="#001bf2" d="M544 699l-5 3-5 9 0 4 3-4 4 13 3-21 2 0 1 12 1-13zM557 696l-3 1-4 8 0 9 4 7 6-24zM608 693l-7 0-6 18 2-3 1 4 8-13 2 5zM631 691l-3-1-4 3-3 23 3-4 1 4 4-17 3-4zM658 687l-6 0 0 7 2-5 1 5 1-3 3 1zM418 678l-7 0-1 6 8 0zM757 677l-4-1-5 2 0 2 7 0zM726 676l3 2 2 8 1-3 3 4 0-6-3-5zM355 658l2 2 3-7 3-2 4 8 0-4 2-2 3 2-1-4-6 0-4-3-3 1zM804 630l-6 0-2 5 1 7 3-3 1-5 2 1 1 5zM743 586l-3 1-2 4 1 6 3 1 3-1 2-6-1-4zM598 585l-4 5-4 11-1-2-1 6-1-3 2 11 4 4 1 7 3 1 4-3 3-28zM770 571l-2 0-1 3-1-3 0 11 2 1 4-3zM704 566l-12 8-4-3-1 6 3 10 2 0 2-5 2 2-1 3 3-1zM754 565l-4 3 1 6 3 1 3-1 1-4-1-4zM720 558l-4 3-2 20 7 5 4-3 1-10-1-8-2 0 0-5zM589 553l-6 9-1-5-4 6 0 5 3-3 4 29-2 0-3-7 1 8 4 3-1-3 2-2 5-27 2 0 4 12zM602 546l0 5-2 0 0-3-1 27 6-18zM572 545l-6 2-2 13 1 6 2 1 5-4-3 1zM806 543l-6 0-2 7-4 3 1 5 6 0 1-5 3-1 2-4zM789 512l-3 1-2 5 1 11-2 5-4 3-3-3-2 2 3 12 2-8 3 8-1 3 4 2 5-3 3-35zM815 509l-4 3 1 4 3 1-4 3 4 1 6 39 5 3 6-5-1-3-1 2-3-1 3-10-4-27-7-1 0-6zM558 471l-3 1 3 5-2 8-2 0-1-8-3 12-4-11-3-1-4 3-2 19 1 2 3 0-4 40 7-7 2 9-4 11-4-4-2 3-1-1 1 11 12 17 3 1 2-14 2 0 3 15 3-1 2-4-2-6 1 2-2 3-2-3 4-33-1-13-2-3 0-14 3-4 2-13 2 0 0 4 2-3-1-11-5-4-1-7zM560 481l3 5-2 9-2-1zM755 469l-3 1-7 13-4 21-2-1-2-20-4-3 3 49-2 0-2-12-2 16 3 23-2 14 2-5 2 3-3 10 4 3 9-7-1-19 3-11 7-7 4-21 2 4 1 22 6 0 3-6 4-41-4-3-4 3-2-1-3-20zM710 452l-3 1-1 7 3 40 2 7 3 1 3-1 2-5 1-20-6-27zM614 451l-4 3-4 18-9 9 1 13 2 1-1 3-2 1-2-5-6 0-3 7 2 4-3 13-2-5-4 13-1 1-3-3-1 7 2 4 3-2 1 2 1-3 4 4 2-20 6-7 1-6 1 3 3-1 4 9 2-5 1 3 3-8 2 0-5 33 9 38-1 16-2 2-2-10-1 10 4 3 3-1 3 8 4 2-1-3 3-3 1-7 1 2 3-23-6-21 3-13-3-43-1 1 0-4-2 0-9 8-2-2 4-22 4-7 1-14zM463 450l-3 1-2 6 1 6 3 1 3-1 2-7-1-5zM689 446l-3 1-10 23 1 5-6-2-4 2-8 14 1 14 1-5 4 12 3 0-3 13 2 14 3 0 5-9 1 4 4 2 5-9 5 25 6-20-5-59 1-1 2 4 1-6-2-19zM409 445l-4 3 1 13-8 6-2 10 2 10 4 3 4-3 2-11 3 17 5 3 3-1 2-7 0-10-3-5-1-10 1-7 4 7-1-8-5-6zM499 428l-4 3 2 17-6 1 0 5-2 2-1-5-4 3 4 32 4 3 3-1 2-5 5 0-3-2 2-13 3 4 0-6-4-8-1 2-1-11 5-1 1-2-1-15zM574 427l-4 3 1 4 3 1 4-3-1-4zM644 426l-3 1-6 28 1 18-2 0-1-6-2 13-5-2 2 24 2 4 3-11 2 0-2 18 1 4 3 2-1 9 3-10 2 0-3 32 4 25 1 23 4-2 1-5 3-1 3-5 0-7-2 5-2 0-1-10 2-1 2 2-1-4 7-62-6-12-6-2-2-6-2-19 2 0 5-25-2-15zM646 581l2 7-3 4-1-6zM656 512l-5 36-7-22 0-6 2 0 0 3 4-8zM525 419l-4 3 1 10-4 3-4 27-5 2-2 5 2 9 4 2 4-1 6-16 5 3 6-15 2 0-1 9 3-7-2-5 3-17-4-3-4 3-2-9zM353 419l-4 3 1 6 3 1 4-3-1-6zM575 414l-4 3 0 5 4 3 4-3 0-5zM354 409l-4 3 1 4 3 1 4-3-1-4zM576 402l-4 3 1 6 3 1 4-3-1-6zM340 400l-4 3 2 8 1 43 6 4 4-3-4-43-2-3 1-6zM440 397l-4 3-3 23 3 36 4 3 4-3 0-7 3-8 2 6 6 0 4-22-1-10-7-7-7-12zM577 390l-4 3 1 4 3 1 4-3-1-4z"/>
<path fill="#0025ec" d="M548 709l-2 3 1 5 3-3 4 7-1-12zM540 704l-6 4 0 8 3-5 2 2 2-6zM600 700l-3 1-3 6 0 5 3-4 1 4zM519 695l-3 1-1 5 2 6 0-5 3-1 3 13 2-3-3-15zM663 690l-1 3 3-1 2 5 0-3 2 0 1 6 2-6-1-4zM635 690l-6 0-2 6 1-3 2 5 3-4 2 4 2-3zM564 685l-4 3 0 6 2-5 2 2 2 15 3 3 1-9-2-12zM651 681l-5 4 1 8 1-3 2 2 0 7 2 0 1-9 3 0-1 4 3-4-2-6zM509 675l-4 3 1 5 3 1 4-3-1-5zM722 669l3 2 1 6 4 3 1-5-3-6zM694 669l0 8 3-3 4 3 1-4-2-4zM427 664l-3 1-1 6 1 6 1-8 2 0 3 18 6-12 5 0-3-9zM749 660l-3 1-1 6 3 13 4 0 1-17zM392 660l-1 5 3-2 5 6 1-5-2-4zM765 654l-6 0-2 4 1 7 4-6 2 6 2-6zM366 650l-1 4 8 0-1-4zM383 644l-3 1-5 17 1 12 2-7 6-7 3-10-1-5zM819 637l3 12 2-4-1-5zM601 593l-3 28-2 0-1-10-1 2-2-3-2 2 1 4 3 1-2 7 4 3 4-2 4-9 1-20zM591 558l6 29 3-1 2-8-1-1-2 3-2-2zM564 555l2 12-2 3 7-1 3 3-2-9-3 1 0-5-2 5zM678 552l-8 22-2 0 0-8-2 5 3 8 8-3 3-5-2-1zM534 549l-1 7 4 8 3 1-2-15-2 3zM218 550l-6 0-3 11 1 5 2 0 4-14 2 9zM684 527l-4 4-2-4-2 2 2 11zM633 512l3 16 4-11zM669 506l-5 0 2 7-4 27-3-5 2 10 3 1 9-15zM901 502l-4 3 0 3 3 3-4 3-1 20 4 3 4-3 1-20-3-3 4-3-1-5zM386 499l0 10 4-3-1-6zM564 494l-10 17 5 11zM723 488l-6 5-2 11-2 0 0-4-2 2 1 10 6-4 1 5-3 32-9 13-2 20-3 3-1-1 3-14-5 12-2-4-1 12-3 3-4-20-1 2-2-5-2 4 1 19 2 4 3 1 5-3 2-5 6 0 2-4 5 3 5-4 4 0-3-2 2-9-1-4 3-5 5 15-3 4 5 3 3-1 4-8 4 20 7 0 4-15 2 4 3 1 4-3-1-5-6-1-2-10-1 9-2 0-2-20-1 4-2 0-2-11 3 26-4 0-2 5-2-5-3 5-2 0 4-13 2 3 1-13-1 1-2-4-5 0 0 7-3 6-2 0-4-54 2 0 5 23zM419 474l-2 18-3 0 0-5-1 2 1 5 3 1 3-1 6-9zM892 476l-3-1-4 3-6 18-4 24-3-25-4-3-3 1-2 4-5-24-4-3-3 1-5 44-4 4-3 25-5 0 4-14-3-11-11-1-4 3 4 1 4 32 4-20 2 0-1 19-5 5 6 0 7-6 8 4 4-3 2 3 6 0 2-6 6-1 1-4 5-3 1-10 6-1 9-23zM243 457l-4 3 1 5 3 1 4-3-1-5zM794 454l-8 4-9 27-7 5-3-3-3-20-3-1-4 3 4 21-1 12 0-6 2 0 3 19 3-15 2 0 0 24-4 12-3-5-8 2-3 3 0 3 3-1 0 24-4 7 1 2 1-4 2 5 9-5 2 6 0-5 2 0 0 10-2 0-2 18 5 4 3-1 2-5 7-44-3 7-2 0 3-17-4-8 4-34 6 28 3-10 2 0-3 33-4 0 1 4 5 4 1 7 6 0 2-11 4 7 3 1 3-1 4-6 5 2 4-3-4-31-4 24-4 7-5-24 0-6 3-4 11 1 1-21-4-15-6 0-3 21-3 0-4-43-2-7zM738 450l-4 3-5 21 1 4 3 1 4-2 7-12-2-12zM697 442l-10 5-1 9 2-6 2 0 1 27 1-7 9 14 3-11 0-11-3-17zM401 426l-3 1-9 32 1 7-5 4 1 13 4 3 4-3 1-8 4 0 1-5 5-5 0 6 4-5-1-17 3 1 1-4-8-19zM335 426l-4 3-3 17 5 14 2 21 4 3 3-1 5-7 2-22-2-3-2 4-3-2-2-21-2-5zM284 425l-4 2-6 9 5 27 4 0 3 6 9 2 3-1 2-9-3-9-6-1-3-23zM652 409l-3 1-9 18 2 10 1-8 2 0 2 24 5-16 2 0 1 8 3-1 4-11 0-6-7-18zM389 400l-4 3 1 4-2 3-2 19-2 1-2-4-3-1-4 3 2 19 4 3 3-1 4 2 3-1 2-4 3-30-1-7 2-3-1-5zM359 397l-4 3-2 21 3 26 2 5 3 1 4-3 3-42-5-9zM471 397l0 20-2 0-2-8-3-1-3 1-7 9 2 3-2 24-2 3-2-8-1 13 1 2 5 0 3 5 7 0 3-14 2-28 2 0 3 21 7 1 3 17 2 0 2-13 2 10 3-3 2 1-1 4 4 8 3 1 1 6 4 5-1 2 3 1 7 57 4 3-1-3 5-13 3 17 0-8 7 11-4-40-6-12-3-1 2-9-5-6 4-20-5 13-1-1 5-31 2 0 1 8 1-11-6-12-4-2-3 1-5 14-9-8-3 1-3 9-2-5-3-1-4 3-2-3-2-23-2-3 1-5-4-3zM512 466l3 8-1 3-3-2-1-5zM500 435l2 3-2 11zM623 389l-4 3-6 57-3 8 0 9-4 7 0 4 3-4 1 1-3 21-4 4-1-4 3 13 2 0 3-7 3 6 1-7 7-5 4-19 2 3 0 7 0-4 3-3 0-7 2-2 2 2-2-20 2 0 2 21 2-12 0-11-10-55-2-5zM613 458l1 9-4 7-1-4zM607 389l-10 6-4 33-1 35 2 9 4 3 4-3 4-45 4-19 1-16zM527 371l-3 1-1 6 2 3-1 12 5 53 2 0 3-14 2 0 1 7 3-10 7 29-4 3-7-12-3 41 6 11 4-21 6 22-1 2 1-2 1 1 4-14-1-17 1-1 3 5 1-4 2 2 0 7 2 4 1-2 4 15 1 19 4 5-4 26 5-9 2 0 0 3 3-8 2 0-3 35 5-6-2-30 1-1 3 3-2-10 3-6-4-13-2 21 2 3-2 3-2-1 0-7-3-5-1-14-3-8 4-7 1 4 5-7-5-4 4-29-6-45-2-6-5-2 3-33-4-3-4 3-5 36 2 33-5 1-2 5 1-15-6-26-4-3-6 4 3 5-3 1-2-2-2-25-2-3 1-6zM505 353l-4 3 3 57 4 3 3-1 9-22-4-28-7-10z"/>
<path fill="#0030e7" d="M542 699l-1 4 5 0 1 14 4-6 3 10 0-18-6-4zM519 692l-3 1-1 6 2 8 1-8 2 0 3 15 5-5 0-5-6-11zM634 690l-3-1-6 4-3 22 5-21 2 0-2 16 5-18 2 4 1-1zM499 686l-3 1-3 7-2-3-4-1-9 5 0 7 2-4 2 2 0 5 1-4 6 5 2 0 1-3 5 6zM649 680l-4 3 1 16-7 1-1 2 3 5-3 1 2 6 1-10 5 0-1-3 2-2 1-9 2 2 1 12 1-7-3-11 2-2 5 6-1 4 1-3 3 2-7-12zM679 677l-6 0-2 3-1 7 2 3 0-3 3 0zM588 673l-3 1-2 4-3 26 4 3 3-1 3-7 5 12 8-14 1-14-3-6-3-1-4 2-2-4zM404 669l-2 11 2 6 9-3 1-3 3 4 5-3 0-6-9 0-3-6zM672 665l-4 3 1 4 3 1 4-3zM434 666l-1 2 4 2 1 5 4 0 0-8-5-2zM398 659l-7 0-4 4 1 4 7-5 2 4 2-3zM364 646l-4 2-1 4 4-1 2 4 3-2 0-4zM696 644l-3 1-3 9-2 19-5 4 2 1 0 5 1-2 2 4 3-6 3 5 3-13 9 15 11-20 3 3 0-2-4-3-3 1-7 10-4-10-3-1 1-17zM757 642l-4 2-6 11 1 11 0-2 2 0 1 14 4-1 7-26-2-8zM377 638l-7 5 1 6 6 4 3-1 3-7-1-5zM782 632l-4 3 0 7 5 26 3-6 2 8 7-30-4-3-4 2-2-6zM821 631l-3 1 3 18 5-8-1-8zM331 610l-3 1-4 10-2 19-5-13-3-1 2 20 5 2 5-1 7-13 3 21 4 1 0-27-1-2-5-1 1-13zM592 609l-2 7 3 9 3 1 4-3 0-7-3 7-2-12-1 3zM295 608l-4 3 1 15 1-8 2 0 1 9 3-6 3 2-3-13zM843 608l-6 0-6 13 0 9 8-5 2-11 2 12zM634 601l0 15 4 3 4-3 1-10-2-2-1 4-4-7zM811 596l-3 1-2 4-4 33 2 13 0-4 2-3 2 14 0-4 2 0 1 4 4-40 0-15zM260 585l0 14 0-2 2 0 6 16 3-3 3 3 1-7-5-4-3-15-4-3zM239 584l-1 4 13 15 6 2-9-21-4-2zM766 578l-2 17-2 2 0-5-3 1-1-4-2 2 0 8 4 3 11-7 0-7-1 8-3-1zM651 569l-8 3-1 8 7-9 3 2zM227 569l-3 8 3-2 1 3 3-1 3 3 0-10-4-2zM607 567l-10 17 0 6 6 8 2 0 2-4zM609 556l5 21 2-10zM532 545l-2 2 2 12 7 6 2-1zM659 535l6 30-2 7 6 4-3 3 3 1 3-1 2-4 7-1 1-6-3 3-1-8-2 9-5 4-3-1-2-31 2-3-1-1-3 3zM572 520l0 3-3 3-5 31 2-6 6-3 7-15-2-1-1-9zM732 517l-4 40 2-3 5 11 1-10zM672 495l0 4-7 8-1-2 1 5 1-2 2 5 0 6 4 11-1 4 4-6 1 4 3-1-3-33zM811 486l-4 3-12 49 0 18 2 1 5-3-1-5 4-6 2-10-1-13zM895 477l-3 1-2 5-3 30 2 15 9 7 4-3 2-23-5-29zM556 452l-3 11 3 12 3 0 3 10 3-5-1-10-4-15zM525 452l-2 0-7 21-2 0 1 4 6 7 0 4 7-22 0-7zM843 450l-4 3 0 4 3 3-4 3 1 8-2 3 1 8-2 3 1 4 5 1-3 20-7-5-6-38-4-3-4 3 3 54 11 0 4 4-2 1 1 23 3-1-2 5 4 1 5-3 2 7 11 1 4 3 4-2 2-5 0-15-1 6-2 0-2-14-1 10-2 1-6-7-6-12 4-45 2-6 2 9 1-8-4-3-3 1-4 7-2-7 2-3 0-6-3-3 3-1 1-6zM846 519l4 29-1 5-7-4zM844 439l-4 3 1 4 3 1 4-3-1-4zM741 433l-3 1-7 14-5 24 1 8 3 1 2-2 2 5 6 48 7-45 4-8-4-20-5-4 3-19zM738 453l3 11-7 11-1-5zM631 427l3 19-3 0 0-6 0 13-2 0-2 20 1 24 8-22 0-5-1 4-2-4-1-18 2 0 0 7 1-2 1 1-1 9 1-3 1 3 4-23-3-1-3-13zM320 414l-3 1-2 6-4 38 1 2 8 1 2 4 3 1 4-3-5-47zM705 404l-6 0-15 40-4-2 1-6-3-24-6 0-2 9-3-13-6 0-4 13 2 12-4 10 2 15-8 37-7-48-4 37 1 20 2 0 0-5 8-2 6 10-1 6 5-2 1-12 2 0 1 4-1-17 5-9 4-3 8 6-2-10 3-7 4-3 4-10 9-5 4 18-2 20 3 6 3 20 9-2-2-8-2-39 2 0 4 21 2 0 6-25-8-27-6 0-2-3zM771 402l-3 1-2 8-5 55 1 5-3 8 2 16-2 0 0-3-1 2-2-5 2 10-9 43 5-5 1 1-3 27-2 2-1-2 0 5 2 2-2 3 0 8 4 3 4-3 0-12 6-3 8-39 2-4 1 2-3-34 5-6 5-64-7-20zM763 534l2 7-6 18-4-22zM763 482l4 25 1-7 2 0-4 36-2-3-4-37 2 0 2 14-2-19zM674 400l-4 3 1 5 3 1 4-3-1-5zM230 399l-4 3 2 39 11 27 3 1 3-1 2-7 1-14-2-7 5 2 8-2 1-9-4-3 3-6-7-10 0 4-3 3 1 3-2 3-2 14-1-2-2 7-6-20-1-17-3-7zM527 392l-1 9 4 34zM425 382l-3 1-10 28 8 49 17 30-1 3 4-3 3-23-1-21-1 12-2 0-3-34 4-24 3 4 0-5-15-16zM352 382l-3 1-9 11 6 55-1 14 4 3 4-3 1-18 5-4-1-11-2-3 3-27 3 5 1-4-8-18zM542 379l-4 3-2 10-2 1-4-2 4 43 0-2 2 0 2 8 2-11 2 6 3 25-1 1-7-9 5 33 1-5 2 4 3 20 3-2-6-38 5-4 1-6-3-2 1-18-2 9-2 0-3-35 2 0 4 16-4-25 2-17zM633 371l-4 3-3 17-2 2 5 27 3 0 5-42-1-6zM393 370l-3 2-4 8-2 1-5-4-4 3 4 55 3 8-4 4-2-1 0-3-6 6-7 3-6 18 1 5 4 2 5-3 6 1 1 14 3 8-3 5-2-5-1 11 6 18 4 3 3-1 4-13-2-30 6-1 1-2-1-4-1 4-2 0-1-11 3 0 1 3 0-7 4-3-2-12 3-9-3-46 3-24zM384 493l3 10-2 8-2-7zM384 470l1 9-2 12-2-9zM387 416l1 9-2 20-2 3-2-4zM590 355l-3 1-2 5-6 36 3 20-1 7-3-1-1-12-2-3 1-4-5-35-4-3-4 3 2 8 0 29 3 0 2 5 2 22 2 1-1 12 3 9-6 41 6-8 2 3 2-3 8 17 4-9 2 6 2-1 2 3 4 17-1-3 3-3 3-10-2-9-2 3-3-17 8-7 2-6-2-4 1-3 3-1 4-11 6-58-3 1-2 9-2 0-3-10 5-4-1-7-6 0-7-13-3-1-4 3-2-12zM579 447l7 28 2 0-4 11-3 2-3-34zM607 392l1 5-1 13-3 9 1 16-2 18-3 5-2 14-3-10 0-23 5-43zM455 364l1 25 4 3 5-2-1 12 1 2 6 1 5 35 8 2 1 3 0-8 2-4 4 21 6-24 2 0 3 8-3 26 8 12-1 3 2-1 4 3 1-4-2-6-4 5-4-29 0-8 2 0 2 9 6-23 2-3 3 3 0-4-7-10 0-5-2 6-2 0-3-55 1-1 3 4 0-5-4-3-4 3-3 33-2 4-4-30-11-5-4 1-2 12-6 4-3 16-2-15-1 5-2 0-3-16zM475 407l4 25-1 5-3-9zM516 348l-4 3-2 11 4 8 3 23 3-1 3-6 1-10-4-25z"/>
<path fill="#003ae2" d="M525 703l-1 10 2-3 3 3 1-5-2-4zM628 692l-7 0-7 5-1 17 2 5 8-4zM497 669l-3 1-3 5-6-2-4 3 3 18 5 0 2 12 1-3 4 5-2-10 5-6-1-2 2-4 2 4 1 15 7-20 2 14 1-3 2 6 2-8-3-17-4-2-6 3-4-8zM583 668l-3 1-2 6-3-1-4 2-5 24 2 10 8 12 8 3 12-16-7-30 2 0 4 10 1-7-4-9-4 0-2-4zM586 684l1 8-3 12-1-7zM717 657l-6 0-6 9-3-8-5 0-1 13 3-4 5 16 13-17 3 4 4 0 4 7 0-6-9-7zM693 660l-2-1-4 2-2-4-6 0-1 4 3 9-7 6-2 10 3-5 1 4 5-11 5 5 1 4 3 0 1-18zM560 657l-6 0-3 17-4 7-8 7-7 23 1 5 6-8 1 3-1-3 6-7 8 6 0 3 3-9 1 10 4-21 2 0-5-2 3-26zM338 640l-1 15 5 1 3 3 0-2 3-1-7-15zM441 638l-6 0-8 25-4 3 1 13 0-6 3-6 3 3 1 6 1-7 5-1 5-26zM375 636l-3 1-1 6 2 2 4-4 3 2-3 7-3-3 0 2-5 1-1 3 1-1 4 4 3 18 2-12 3 1 3-3 1-5 2 6 1-11-4-9zM654 632l-4 3 1 6-2 3-4 37 1 5 2 0 1-3 4 3 4-34-1-10 2-3-1-6zM602 617l-2 0-4 7-2-4 0 11 7 0 2-8zM767 612l-4 3-3 15-5-2-4 2-3 6-2 14-4-15-3-1-4 3 0 13 4 23 2 0 3-6 2 1 0 4 2-10 3-2-1-4 5-9 3-1 1 4-5 20-2 0-1-7-1 4 2 5-1 6 4-1 6-19 3 8 2-5 5 10 4 2 6-1 4-9-2-16-4 3-3 12-2-1-3-11-5-1 5-31-1-5zM841 609l-3 1-1 5 3-5 2 5 3 35 2-30 2-3 3 2-2-7zM693 601l-3 1-2 6 0 9 4 3 3-1 2-7 0-8zM367 598l-3 1-2 4-5 32 1 7 4 3 4-3 5-39-1-4zM877 595l-6 0-8 15-3 10 2 6 1-2 4 2 6-26 2-2 2 3 1-1zM792 592l-4 3 0 4 3 3-4 3 1 8-3 13 0 7 4 3 4-3 2-28-3-3 4-3-1-6zM259 586l-7 15 2 4 1-2 2 4 4-11 8 19 1-8 2 0 1 9 3-7 6-6 6 14 0-4 3 0 0 7 2-15-8-5-3-10-7 0-2 5-5 0-3-9zM264 591l3 10-1 3-3-6zM597 584l0 6 6 8-1 3 3-1-1-10-2 6zM886 572l-4 3 1 4 3 1-5 4 1 4 3 1 4-3-1-4-3-1 5-4-1-4zM645 571l9 3 0 4 5-3-1-4-3 3-4-5zM261 568l-3 1-3 8 1 4 3 1 3-1 3-8-1-4zM749 565l-2 10 2 2-4 4-3 14-2-4-2-18-2 5-2-5-1 8 7 15 3 1 4-3 0-8 2-1 5 4-3 1-1 7 4 3 4-3-2-8 1-7-2-2-2 3-3-4 2-11-1-2-1 2zM847 553l0 6 6 0 0-6-2 3zM523 543l1 8 5 4 1 5 7 0-5-15-3 4-1-3-1 5zM803 542l-3 3-2 11-3-5 0 7 4 7 3 1 3-1 3-5 0-5-3 3-4-9zM206 528l-4 3-3 35 4 11 3 3 4-34 0-15zM892 525l-2 7 2 35 2 7 3 1 4-3 3-34-4-13-1 9-3-8-3 2zM375 515l0 8 5 4-2-9zM571 514l-2 16 7-5zM869 494l-3 1-1 6 2-5 2 0 4 40 4-3-1-4 2 0 5-33-4 0-3 6-4-7zM890 473l-3 1-2 16 3-11 2 0-2 28-2 3 3 1 6-31-2-6zM386 458l-2 22 2 26 5-4 2-12-1-17-2 10-2-2 1-5-2-3 2-3 2 1 0-6-2-6zM464 455l-2 6-4-6-6 9 2 18 4 3 3-1 4-11 1-13zM346 451l-2 26 3-1 5-9-2-13-1 9zM664 445l-4 3 3 0 1 4-7 50 14-26 3 3 1-2-7-29zM872 444l-6 0-9 8-3 15 1 5 4 1 6-4 9-1 1-8zM676 434l-3 1-1 5 4 31 4 3-1-3 5-14-5-10 5 0-5-12zM224 430l-3 1-1 6 1 12 2 5 3 1 5-3 2-8-2-8zM813 423l-3 1-6 20-2 1-4-3-3 1-9 15 0 7 2-4 2 0 1 10 2-13 2 0 1 13 0-3 2 0 2 12-1 17 2 10-6 36 2-11 6-13 4-30-1-5 2-3-1-5 2-3-1-5 11 1 4 27-1-22 2 0 5 32 8 6-4 9 2 7-2 16 1 9-8 7-2-1 0-7-6-17-3 4 3 13-4-1 0 2 4 5 6 24 10 8 5-4 4-16-4-16 5-1 1-2-3-2-2 2-2-1-2-18 1-1 3 5 5-47 4-9-2-8-5 0-2-5 2-7-3-3 3-1 0-6-6 0-1 4 3 3-3 1 0 7-2 1-4-30-4-3-4 1-5-10zM607 418l-3 1-5 54 3-13 7 13 3-11-3-30 2 0 3 22-1-14-3-13 0 3-2 0 1-7-2-1zM365 407l-4 43-2-4-4-37-1 5 2 3-2 1-1 8 2 5-1 7 1-2 1 1 1 34 4 3-1-3 5-16 6-4 2 1-3 19-2 0 0-3-5 5 3-1 1 12 6 13-2-10 2 0 3 7 2-2-5-37 2-9-6-36zM300 407l-9 47 2 6-1 7 4 3 3-1 4-9 11 2 4-3-4-1 2-16-4-1-2-20-5 0-1-13-2 7-2-2zM295 457l2 5-2 6zM276 401l-2 0-5 42-4 2-4-3-1 2 3 22 4 3 4-3 2-12-1-20 2-3 0-14 2-3 0-3-3-3 4-3zM334 400l-4 3-4 18 0 6 4 3 4-3 6-19-2-6zM228 392l-5 5-2 0-1-3 0 6 5 2 3-1zM544 379l-3 1-1 6 2 1 0 16 7 27-5 22 7 6 3-13 2 0-4 24 5 7 1-2 4 11-2-10 2 0 1 6 2-1-3-37-3-7 0-27-4-4-7-23zM579 371l-4 3-2 37 1 7 2 0-1 13-2 0-3-17 4 29 7-16 2 0 6 23-5 35 5-4 9 10-5-32 1-6 2 6 0-6-6-31-3 2-2-2-3-22 3-15-2-11zM712 365l-4 3-5 28-3-10-3-1-5 4-3-17-6 0-1 6 2 3-1 9 4 53 2 0 13-37 7 46 3-20 1-1 2 3 6 23-5 20 0 5 2 2-2 17 17-23 0-2-4 1 5-28 7-13 0 9 11-24 1-7-3-16-4-3-3 1-3 7-5-4-7 3-5 16-2 0-4-45-2-7zM503 355l-4 3-3 17-4-11-5 0 2 1 4 53 7-4 0-4-3 0zM480 336l-3-1-4 3-7 35-4 4-2 12-3-28-4 1-10 17-5-23-3 3-8-1-10-24-2 0 1 32-4 6-7-2-4 1 0 11-4 3 2 6-1 8-2 1-5-3 4 54 6-22 8 18-2 5 2 2 0-6 12 9 1-8-3-9-4-30 3-6 0-9 5-11 2 0 8 11 16 14 0 5 7 7 0 4 0-4 8-10 1 3 2 0 3-6 0-6-3-1 1-11 2-5 1 3 3-2 8-40zM624 302l-4 3 1 5-2 3-4 39-7 32 2 13 7 20 5-24 2 0 2 10 5-24 2 0-4 41 6 26 5 2 3-19 8-16 2 0 1 4 0-8-3-11-5-1 2-19-7-10-7 0-2-2-4-12-4-5 3-27-1-10 2-3-1-6zM574 283l-4 3-5 42 1 6 4 2 3-1 7-14-2-35z"/>
<path fill="#0045dc" d="M579 690l5 35 5-7-3-25-1 10-2 0 0-4-1 8-2-7 1-9zM541 669l-4 3 3 18 8-5 5-8-4-1zM425 666l-13 13 4-2 4 1-4 2-1 3 8 2zM619 662l-4 9 5 24 5-1 1 4 1-4 5-2 8 23 1-12 4 1 0-2-4-5-3-10 1-14-12-10-5-2zM459 657l-4 3-3 21-2 0-2-7-6 0 4 5 7 27 1-2 5 7 2-8 2 0 1 7 2-7-4-31 1-12zM519 654l-4 3-1 19-2 1-4-3-4 3 1 5 2 0 2-4 4 3 1 18 4 0 1-4 2 3 2-10 1-27-2-6zM381 653l-4 3-2 8 1 5 8-9 0-3-1 4-3-5zM609 648l-5 4-4 24 1 12-3 19 7-12 4 14 1-2 2 4 2-6-4-16 4-31-1-7zM404 647l-6 0-2 8-5 0-2-3-4 0 3 15 6-6 2 3 2-1 4 3 3-1 2-13zM750 644l-2 11-5-2 1 7 2 0 2-5 1 2zM576 640l-4 3-6 26-5 6-2 10 1 8 2-4 3 0-1 7 1-2 3 16 4-29 3-4 2 3 3-2-4-14 4-21zM471 640l-4 3 3 27-2 41 3 0 8-12 8-6-2-14 1-1 2 4-2-13-9-15-3-13zM675 639l-4 3 3 15-6 12-3 23 4 1 2 9 2-19 7-9 3 1 6 11 1-3-6-15 1-3 3 5-1-8-9-22zM756 635l-4 19 5-9 1 4 2-11zM801 622l-6 0-2 6-3 0-1 5-1-4-4 3-3-7-3-1-7 2-2 4-4 2-4 25 2 0 1 10 4-15 7 21 1-4 1 4 6-23-2-9 1-6 4 13 4-7 2 0-2 23 4-18 5-7 2-7 2 3 0 5 1-7zM344 616l-4 3-3 17 2 11 4 4 2 8 2-4 5 2 1-12-5-26zM816 607l-4 3 2 26 0-7 2-2 3 13 2-6 2 7 1-14-2-15zM317 605l-3-1-10 5-1 6 2 5 3 1 4-2 6-9zM294 602l-7 2 3 2-1 6 2 1 1 13 2-14 3 1 1 5 1-6-1-7zM647 591l-4 5-4 19-2 0-1-8-2 8 4 49 2 4 3 1 4-3 8-63zM899 589l-10 8 0 10 3 8 3-5zM698 585l-8 6-3 10 0 7 2 3 2 0 2-7 1 7 2-2 3-19zM578 581l-1 5-2-4-2 5 3 3 1 24 7 29 3 1 4-2 3-9 5-2 1-8-1 5-3 0-7-29 0 5-2 0zM880 578l-3-1-4 3-5 14 0 6-4 7 1 4 9-14 2 3 2-2 3-16zM734 573l-3 6 4 41 2 7 3 1 4-3 8-39-4-3-3 1-1 9-2 2zM261 569l-3 1-2 6 1 4 3 1 5-4 0-5zM751 566l-3 7 3 8 1-5 2 0 0 6 3-1-1-14-2 9zM233 567l1 19 3-4 1 6 6-3 3 3 0-8-5-4-2-8-4-2zM273 564l-4 3-3 31 1 7 1-6 3-1-1 12 0-3 2 0 2 16 3-30 3 0 1 5 1-8-2-3-2-20zM778 556l-2 4-7 0-1 11 7-12 1 7 3-6zM853 534l-1 21-2 2-1-4-3-2-3 0-1 2 7 26 4 3 5-4 3-16-2-9-3 4zM817 522l-2 18 9 13zM204 521l-4 3-6 28 7 19 4-39 2 0-3 39 1 8 2 3 7-29 2-1 4 28 5-4 3-35-4-3-3 1-2 4-4-1-5 2-2 5 0-25zM806 520l-5 26 1 2 1-4 2 0 3 7 0 6 3-1 1-6-3 3zM875 515l-2 12-1-3 2 8-1 7-2 0-1-5-4 13-1-3 0 9 3-1 2-7 4 3 3-1 5-14-1-10-1 5-2 0zM714 505l-9 1-2 13 12-9zM734 477l-9 4-2 10 9-12 2 4zM691 470l-1 18 4 27zM804 458l-2 10-7-9 6 48-3 24 6-14 8-31 4 14-1 20 9 1-3-56-7 1-7-6-1 5zM271 457l-2 0-2 9-2-9-2 8 1 6 6 0zM707 456l-6 12-2 10 1 6zM408 448l-2 20 4-3zM384 448l5 21-1 3 1-2 5 4 2-3 0-8-2-4 0 4-3 0zM421 446l-4 9 8 14zM631 440l-2 16 4 11-1-15 2 0 0 7zM231 440l-2 6 2 3 3-1zM356 424l-3 2-3 36 4-3 4-16zM456 422l-2 18 3 12-3-1-1 2-1-5-2 2 1 15 4 3 0-3 5-7-2-6zM252 414l-2 0-6 28 1 8 3-2 2-15 2 0 0 5 3-5 1-9-2-1 1-2zM918 413l-3 1-2 7-5 49 1 4 7 4 1 11-4 16-3-9-6 0-2 5-3 33 2 11 4-3 1-8 5 3 4-1 2-14 4 0 2 6 3 1 3-1 2-8-1-7 2-5-1-2-7-1 2-23 8 0 2-4-3-37-2-8-3-1-5 2-1-18zM751 410l-2 1 1 6-8 18-3 19 1 7 4-1 5 23 6-11 1 4 0-2 2 0 2 8 2 0-1-6 2 0 0 3 4-35 0-6-3 1-2 5-2-3-4-25-2-5zM500 410l-8 5 9 22 2-7zM220 395l-2 5 2 34 4 3 0-4 2 3 3 0 1-27-4-10zM232 394l0 13 5 14-3-27zM319 393l-8 24-4 4 2 26 7-2 4-28 6 43 2 0 2-4 0-9 5-18 4 20 3 4-1-41 7 48-1-17-2-2-2-43-4-3-3 1-1 3-6 4-4-7-2 5zM334 403l3 4-7 20-1-5zM864 391l-3 1-2 7-6 56-2-4-2-13-6 0 0 7-2 1-10-15-3-1-4 3 0 7 0-3 2 0 8 64-1 8 3 2 0 3 4-3 4-30 4 1 6-9 1 3 1-3 4 0 2-6-3 3-2-1 2-14 10-9 3 19-4 1 7 15 3 20 2 0 3-5 7-20 3 9 1-4 2 0 2 10 3 1 4-3-5-39-4-3-3 1-5 9-3 1 3-27-7-11-3-1-3 1-2 4-4-26-2-6zM295 377l-2 25-2 3-3 1-13-15-6 49 1 9 3-1 1-8 4 0-1-3 5-7 3-1 5 36-1 2-2-2-2-16 0 16 3 7 5 3 4-1 2-5-1-8-1 5-3 1 1-10-1 1-1-3 2-1 7-38-4-5zM412 372l-3 2 3 2 4 33 9-24 5 6-3-12-7-3-1 4-5-3 1-4zM736 365l-4 3-5 23-9 13 2 19 5 3 0-6 5-15 3 0 4-4 3-33zM478 358l-3 3-5 39-3 1 2-11-2-9 1-5-1 3-4-3 4 27-2 11 2 7 2 0 3 6 3 1-2-35 5-32 4 0zM374 349l-3 28-1-2-2 6-5-11-2-1-1 2 3 34 4 10 5 36 4-4-2-18 2 0 3 8 1-4-2-52 2 0 7 14 5-18-2-3-6 5-3-1zM398 347l-2 5 0 11 4 12 3 1 1-3 3 0-3-15 0 9-2 0zM792 334l-3 1-9 19 6 90-7 1-3 3-4 44 7-4 8-25 11-18 2 4 2-3 3-22-1-6-6-1 5-48-8-34zM450 321l-5 21-9 15 6 43 2-12 2 0-2 18 9 12-5-37 4-44zM667 313l-3 1-2 8-4 49-7 12-3-5-4 0 1 6-4 21 2 10 4-14 2 0 2 13 1-2 7 17 4-18 2 0 4 24-4 2 0 6-4 6 4 0 6 26 3 4-2 19 6 26-4-44 1-1 4 4 3 12-7-57 3-1 2 9 3 0 3 4 4-12-3-48 2 0 3 29 4-30 2 0 1 7 5-24-4-43-4-3-4 2-8 13 2 25-10 4-4-48-2-8zM499 304l-1 7 4 47 2-3 9 12 2-15 2 0 4 30-13 31 9 11 6 12 2 9-2 10 3 5 2 0-3-31 2 0 3 22 1-4-4-63 2 0 1 10 6 6 5-14 0 14 2-6 2 4 0-13 8 23 3 4 3 0-7 42 3-12 2-3 7 42-5-75 5-30-1 32 5-2 1 3-1-11 0 3-2 0 2-33-4-19-4 0-2-4-4-29-4-3-3 1-6 22-5 1-1 2 2-30-4-3-9 1-7 43-5 1-6-45-4-3zM596 290l-3 1-7 25-2 2-6-4-7 18-3-1 1-5-2 4 5 56-1 11 3 21 4-43 2 0 3 22 6-38 2 0 5 42 9-8-1-5-2 5-2-3-1-19 2 0 8 14 3 1-1-3 6-24 2-28-4-26-4-3-3 1-4 12-4-22z"/>
<path fill="#0050d7" d="M521 671l-3 25-2-17-4-2-3 1 3 2 4 31 3-16 9 17 5 5 0 3 3-10-5-1-6-35zM597 669l-6 0-6 6-1 14 2-5 1 2-1-7 2 0-1-2 2-2 6 14 3-10 2 4 0-8zM574 658l-1 7 3 8 2 0 0-12zM431 638l-3 1-5 8 3 21 4-4 5-17 0-6zM799 629l-1 6 3-3 2 5 2 0 0-8zM780 628l-2 29 4-23 3 5 0-7zM472 626l-7 5-5 13-4-8-6 0-3 14-6 4-1 11-6 1 0 2 6 2-1 5 6 1 2 3 6 27 3-36 2-9 2 0-1 12 5 38 7 0 3-33-4-34 2 0 2 11 9 15 3 17 0-9 3 6 3-7 2 6 3-11 2 4 0-8-4-8-6 0-3-2-1-6-4-4-5-19zM418 635l-1-2-10-2-5-18-4-3-3 1-1 4 5 24-5 1-4 14-5-11-4-1 1 3-5 5-4-4 1-3-4 3-5-3-4 2-4-5-4-1-4 3 0 15 8 4 3-9 4-3 1 4 4-1 2 3 1-3 4 22 7-27 3 13 1-4 4 8 3-7 2 6 2 0 3-14 3 4 0 7 6 0zM860 609l-6 0 0 7 2 0 1-3 1 3 2 0zM771 605l-3 1-4 7-5 30 5-19 2 0-5 33 6-19 1 7-2 15 5-27 4-5 0-20zM814 603l-2 1-3 42 2 8 3-25 2-2 1 4-2-20 1-1 3 3 2 19-2-24-2-4zM304 601l-4 3 1 17 6 8 0-3 3-3 4 3 1-8-2-6-5 6-2-6 3-4-2-6zM839 591l-4 1-3 4-6 36-4 3 0 14 9-16 1 3 2-14 5-11 2 0 4 7 2-4 1 2-5-22zM328 585l-3 1-1 4 9 15-3 1-2 4 0 7-5 4-2 15 4 3 1 8 0-21 4-12 2 0-3 30 5-13 3-1 0 5 2-4-2-22 6-1 1-2-2-6-11-14zM281 576l-4 6 0 6 4 7 3 12 2 1 0-4 6 3 2-2 1 4 1-4-8-27-4-3zM262 572l0 4-2 2-1-5-6 9-1 19 2 4 9-18 4 18 2-15-3-15zM756 562l-2 22-2 0-1-16-1 24-4 7-6 26-2-10 0 4-2 0-3-39-6 2-3-1-3 4-5-3-4-6-2 6-2-9-8 11-3-10-1 12-6 5-2-4-2 0-2-18-21 15-4-4 0-8-5 12-7 9 7 10-2 19-5 15-4 29-2-3 0-7 0 12-2 0-6-24-4-3-4 3-6 22-3 2-3-7-2 0-5 31 9 27 2-21 6-3-5-25 4-6 14 10 0 4 2 1-4 12 3 0 2 10 5 0 1-11 3 0 3-27 0 21 1 1 1-2 3 3 0 4 3 3 9-1 3-23 6-11 0-11 1 2 1-2 2 2 6 15 4-5 1-8 3-1 1-3 3 4 0 7 3 2 2 10 7-11 3-2 2 1 1 5 11 8 2 9 5 7 7-16-4-22 1-12 6 30 1-1 2 4 1-7 1 9 5 0 1-7-2 5-2 0-1-13-1 1-2-4-3 6-2-11 3-8 5-38 2 5 3 1 3-1 4-6 0-6-3 4zM694 591l1 9-3 17-2-15zM811 550l-3 4 6 44 2 4 3 1 4-3 6-18-4-6-5-22zM838 547l0 4-3 3 6 0 6 8-1-6 1-1 3 4-1-6-7-4-3 2zM882 545l-4 3 1 4-7 29 1 5-3 1-3 9 1 4 3 1 1-9 2-4 2 0-1 10 2-6-1-5 3-1 4-13 1-20 2-5zM923 532l-4 3 1 5 3 1 4-3-1-5zM188 522l-8 6-1 4 3 14 2-2 3 2 2 12 2-11 2 0 1 5 1-13-3-14zM163 512l-4 3 1 20 1-11 2 0 1 13 2-12 3 8 0-11-3-9zM143 490l-4 3-1 7 2 5 6-11 0-3zM734 475l-8 5 7 0 5 38zM847 462l0 6-5 1 0 11-7 38 6-7 4-19-1-11 2 0 0 4 2-3zM850 461l2 15 2-3 2 4 5 32 7-14 8 15 5-10-4-22-3-1-3-8-4-3-4 0-6 5-2-3 1-4zM758 461l-7 18 3-6 2 0-1 11 2 14 0-18 2 0 5 30-3-38zM666 436l-7 14 5-2 9 7zM330 428l-3 17 3-1 2-8zM917 414l-7 6-3 8-6 48 1 12-4-1-2-4 5 27-2 24 8-36 7 30-1 5-3 0-5-18-8 57-4-28 2-17-3 0-1-6-3 2 7 73 8-12 4-46 5 2 4-1 2-13 7-1 1-3 1 3 3-1 7-20 2-24-4-3-4 3-7-7-4 42-2 5-3-8 5-22-1-13 0 4-2 0 0-4-6-6 6-54 2 0 1 15 1-15zM943 412l-4 3-2 11-2-4-6 0-2 7 1 5 3 1 5-4 1 1-1 17 4 3 5 0 4-3-2-34zM376 404l-2 1-2 17 11 21-2-32-2-6zM202 391l-4 7 0 5 6 9 4 2 3-1 1-4-4 1-2-14zM233 382l-7 11 0 5-4-1 0 2 5 5 3 10-1-11 2 0 5 16zM630 368l1 3-5 24 0 10 5-22-1-11 4-1zM356 368l-12 19 2 4 6-6 8 13 3-8 1-15-1-5zM833 364l-3 1-2 6-8 58 3 12 2-5 1 5 2 0 0-8 6 7 3 6 1 10 2-8 1 2-2-8-4-2 2-7 2 6 3 1 4-3 8-36 2-27-4-3-3 1-4 19-9-26zM543 363l2 22-2 0 0-4-2 19 8 30-5-44 1-1 1 2zM295 361l-4 40-3 3-5-4 7 41 6-4 5-21zM778 344l-4 3 1 4 3 1 4-3-1-4zM683 336l-3 1-6 27 0 25 4-15 7-6 2 1-1-10 2-5 0-13-2-4zM532 328l-5 38 2 25 9-51 2 0 1 12 2-10-5-10zM602 320l-2 7 3 3-4 3 1 13-3 17 7 9-1 4 5 8-4 10 4-1-4 27 6 24-1-12 2 0 3 22-6-59 2 0 3 11 0-8-4-14 2-4-1-6-2 4-2-6-2-30-3-2 1-2 1 1-1-11 3-2 0-5zM666 318l-4 3 3 5-4 3 1 6-3 8-2-4-3-1-4 3-8 33 9 17 10-19zM715 317l-3 1-5 8-3 20-2-3-1-11-4-3 4 44-4 15 4 18 2 1 1 12 7-50 2 0 7 65 3-9 2 0-3 15 4-19-1 3-2-2-2-17 3-6-9-31 4-48zM745 310l-3 1-2 6-7 50 1 5 2 1 2 32 4 3 3-9 2 0 3 16 1-2 2 4 7 36 7-12 3-35 2 0 2 6 1-12-6-9-4-2-5 2-3 8-5-13-3-1 5-36-4-32-2-6zM505 286l-3 7 1 4-6 4-8-12-8 28-7 7-1-2-3 3-7 50 2 11 12-48 2 7-6 26 4-15 1 3 2-1 8 4 3 3 0 8 6 20 6-37 2 0-3-32 1-10 6 46 2 4 5-13 2 6 4-17 2-22-5-18zM560 264l-3 1-2 5-7 41 1 7 1-2 2 5 5 32-1 3 2 0 3-5 2 5 1 12 2 2-3 36 1-2 1 3 3-1 1 3-2-32 2 0 2 20 3 2 2-2-5-58-3-8 5-44 2 0 2 31 1-1 9 7 3-14-6-1-6-23-10-2-5-19z"/>
<path fill="#005ad2" d="M759 655l-6 16-3-5-1 14 8-1 3-16zM695 647l-2 2 0 5-4 3 0 4 3 3zM678 644l-2 0 1 3-2 0-2 19 4-8-1-10 2 0 3 9zM526 638l-5 4 0 46-2 0 1 9 0-22 2 0 7 41 2-1 2 2 0 3 0-6 5-9-5-59-2-5zM439 636l-3 1-2 4-4 23 6-18 1 6-3 16 8 2 2-15 2 0 2 5 1-7-7-16zM356 619l-4 3-2 21 2 3 0-3 2-1 8 10 3-6 3 3 0-5-4-8-1 5-2 0 0-15-2-6zM460 619l-3 8-6 1-2 11 2 5 2-6 8 16 7-21 6 22 6 9-5-17 0-4 2 0 1 6 4 4 1 10 5-1 3 7 1-7 4 7 0 6 1-3 3 5-2 15 4-10 3 9 2-13 3 0-1-4-8-2-8-24-10-4-3 1-7-22-4 0-2-4-3-1zM371 596l-3 1-3 5 0 4 0-2 2 0 0 23 4 3 4-3 3-14-2-13zM721 584l-3 1-7 27 1 9-4 2-4 11-2 18-2-5-3-1-2 35 3-20 2 0 3 14 11-16 1 5 11 8 8 14-4-42 1-46-1-2-5 0-7 58-2-4-5-26 2-5 3 4 8-31 1 2 0-7zM607 582l-6 47-9 1-5 11-2-5-1 13-5-9-3-1-4 3 5 19 2 18 3 1 1-9 2 11 5-10 4-3 4 4-2 2 1 7 1-3 3 4 3-25 3 0 0-5 2-2 4 26 5-7 6-20 3 0 2-6 9 30-3 5-1 12 4-1 1 11 7 3 2-17-4-25-1 4-2-3-2-31-3-3-3-43-3 19-6 4-6-17-7 1-1-3-3-1zM660 579l0 7 6 0 0-7-3 3zM575 578l-2 12 3 18 4 3-2-30-1 6zM751 568l-6 11-2 18 4-9 1 5 4-16zM327 562l-4 3 3 17-6 4-4-7-6 0-6 25 2 7 9-3-4 6 0 4 10 30 6-2-1-19-1 1-1-3 4-4 4-12 2 0 0 6 4-7 6 5 6 0 5-12-1-6-3-1-3 1-3 6-3-12-9-15-3-11zM332 594l8 9-1 2-6-5-2-4zM391 560l-4 3 1 5-2 3-5 55 4 3 3-1 3-21 2 0 2 30-4 25 4-15 2 0-2 14 9 25 4-13 4 6 8-2 8-11-2-18 3-5-4-17-6 0-6 6 0 3 2 1-4 10 0 7-2 0-2 5-8-34 0-3 2 0 4 14 1-1-5-21-1-14-2-3 1-6-1-2-5-1 0-17 2-7zM401 649l3 4-2 10-2-8zM917 554l-11 10-1 8-4 8 0 7 2-3 2 2 6-16 9 24 7-24-6-15zM211 554l-2 2-1 8-3 1-1 12 3 5zM747 601l5 35 1-3 3-1 2 17 9-39 4-4 3 2-2 19 6 0 9 15 2-16 4 11 5-13 0 11 4-4 1 5 2-3 1 1-1-16 2 0 0 8 2-24 2-3 1 14-2 26 2-28 2-5 3 5 1-2 3 3 2 21 5 3 6-35 4-7 2 1 5 23 2-4 8 8 2-11 4 18 6-21 5-9-2-2 2-7 2 0 1-3 1 13 6 7 2-14 3 5 1 10 1-1 2 4 1-2-1-9-4-3 2-27-4-3-3 1-3 5-1 8-2 0 1-9-4 8-3-6-6-1 2-15-2-3-2 4-3-6-3 20-3 6-2-6 0 3-2 0-5-25-8 1-1 2 5 12-4 19-2 2-6-3-6 16-3 2-4-4-5-43-3 5-3 0-2 3-6-5 0 4-3 2-3-2-1-8-7-6-6 12-7 37-4-4-9 13-2-7-3-1zM225 541l-4 38 7-4 2-4 2 2 2 13 2-3 1-13 3 13 0-13-7-4-3-19-2-5zM192 539l-1 9 1-2 8 23-3-12 1-9-3-8zM250 537l-4 3-4 42 1-2 11 25 2-22 4-11 2 0 1 6 2-8-2-5-6-1-3-24zM276 536l-3 1-1 4 9 39 4-1 1 6 3 2 4-3 3-25-6-4-5 4-5-20zM159 504l-1 5 3 14 2-8 8 25 6-5 3 16 5-7-3-13 6-6 1 6 3-5-2-16-4-3-3 1-9 25-2-2-7-27zM902 501l-3 33 4-17zM910 471l-5 26 6-5 5 16 4-18-1-14zM864 466l7 26 7-12-6-14zM820 465l-6 1-6 35 3-15zM222 417l-1 18 3 5zM919 416l3 43 4-23-3-17zM252 412l-3 4 4 9-1 13-2 0-2-7 0 10 3 7 3 1 3-1 2-6 2 5 2 0 1-4-2-7-2-1 0-11-5-11zM227 409l-2 25 5 7-1 8-2 2 2 1 4-2 1-4-3-6-1-30zM355 407l-2 19 3 14-3 10 3 17 4 3zM764 405l-1 11 5 17 1-12-3-8-3-1zM219 402l-10 9-3-3-1 5 5 6 3 1 4-2 3-10zM961 397l-4 3-4 36-3 1-2-18-4-3 2 32-5 3-4 23-5 4-2 21 3-14 2 0-2 23-3 2-3 12 0-14-4 14-2 1-4-4-3 7 5 12 7 0 3-8 2-17 9 3 4-2 4 10 5 27 1-2 4 5 9-19 2-17-4-48-2-7-4-3 4-32 6-2 2-3-7-25zM895 379l-3 9-2-7-3 15-6 0-4 3 2 23 6 10-5 44 16-26 6 37 3-11 5-47 3-8-8-3-3 1-3 6-1-8-3-7 3-29zM378 379l-5 38 1-7 2-3 7 36zM168 376l0 9 2 4 3 1-1-13-2 3zM363 370l-5 27 10 18zM330 363l-6 39 4 8 6-7 2 3 2-7 2 0 8 61-5-65 5-8-1-3-4 1-7-22zM862 361l-12 8 2 32-2 1-3 11 0-11-2 2 2 13-4 19-2 0 0-14-4 19 1 11 1-3 2 0 7 19-2-21 2 0 2 17 5 3 7-67 2-6 2 8 1-2 0-31-2-7zM374 349l-5 33 3 6 4-7zM657 343l-1 4 5 16 1-16zM563 329l-10 41 14-37zM450 321l-7 75 4-19 10-14zM409 316l-6 54-2 0-1-7 0 3-2 0 1-9-1-2-3 1-9 36 1 3 4-17 2 0-2 22 8 7 6 32-3-38 2 0 4 28-4-48-3-4 2 0 1-4 10 3 5-9-2-33zM601 315l-6 49 5 5 6 12-5 14 6-3 2 1 7 22-6-41-2 5-2 0 1-6-2-5 1-6-4-27 3-9 0-8zM526 308l-3 1-3 7 1 11-4 19 2 14 7-50 3-1zM676 307l-12 8 1 14 1-12 2 0 6 67 7-41 2-4 2 4 2-3-8-32zM485 302l-3 2-4 15-5 6 6 20 3-1 1-6 3-3 6 2-1-5 3-8-6-21zM710 270l-10 17-6 16 9 63 4-10 3-29 4-6 2 0-4 47 10 36 7-9 3-18-4-29-9-31-6-1 4-44-1-2-2 2zM656 263l-4 3 1 6 3 1-5 4 1 7-2 3 0 6-2 0-2-10-5 0-4-7-6 0-3 8-3 1-12 25 5 37 3-25 2 0-1 25 1-8 2 0 3 26 3 6 7-1 6 8 10-37 3-35-1-9 2-3-1-9 2-3 0-5-4-3 5-4-1-6zM778 254l-11 63-5 0-3-7-8-42-2 10-4 5 1 34 5 33-3 20 3 24 6 18 6-21 4 0 7 9-1 4 3 6 2 14-3 35 0-4 7-8 7 13 1-12-4-33 1-14-4-46 3-5-1-5 5-9 2-1 3 2 7 32-5 48-3 2-1 4-2-1 4 10 5-11 2 0-3 26 5 9 9-30 10 20 2-13-2-5 1-3-3 0 4-7 7-50 2 0 1 5 4-50-1-11 2-7-3-2-5 38-2-18 0 8-2 0-5-51-11 11-6-4-5 31-4 3-2-1-4-47-3 11-3 2-3-2zM657 253l-4 3 1 4 3 1 4-3-1-4zM579 239l-4 3 4 61 4 15 5-6 0 7 6-21-11-56zM552 204l-12 14-2 12 3 65 7 16 4 2-1-3 7-39 2-4 2 6 1-2-3-50z"/>
<path fill="#0065cd" d="M416 630l-5 4 4 2-8 22-3-4-1 10 9 15-1-5 5-41 3-2zM519 627l-5 2-1 6 4 32 1-9 2 0 1 4-1 20 1-8 2 3 4 29-4-44 1-19 3-1 0-5-5-9zM465 620l-4 3 0 3 1-4 3 0-3 27 8-24-2-4zM504 609l-3 1-7 13-9 3-7 22 3 3 1-4 9 4 6 18-1 6 1-4 4 9 0-4 5 0 1 6 0-4 4 1-1-5-7-1 5-46 0-15zM396 607l-4 3-4 48 3 6 7-26zM348 598l-3 6-3-1 0 4-4-1 4 23 1-9 2 0 6 33 4-30 2 0 1 8 2 0 0 8 6-36 1 7-4 33 8 12 4-16 8 7 2-2-4-32-3-6-4 0 1 6-4 15-3-22 2-5-3-1-4 3-1 16-2 3-6-23zM766 594l-6 49 6-27 5-8 1 6 6-10-2-5-2 4zM795 584l-2 2-3 45 3 6 3-39 3 0 1 11-3-24zM300 582l-3 1-4 11 0 11 2 1 4 15 6 4-2-20 2 0 1 6 1-12-3-14zM733 575l-3 4-1-3-2 4-4-3-3 7-8-8-7 23-8 44 6 32 4-40 5-13 1-14 5-21 3-2 2 3-4 24 4-19 2 0-3 35 3-28 3-1-3 63 5-35 2 0 1 12 0-5 2-2 4 5-2-38zM548 572l-3 5-3 23 4 3 4-2 6-12 0-5-3 3-2-3zM331 572l-1 3 8 12 1-4-5-10zM633 568l-6 43-2 4-2-7 3 14-8 23-2 0-1-6 2 14-3 23 9-14 5-18 5-10 3-1 0 5 2-4-4-26 1-23zM751 567l-7 28 2-6 2 0 0 11-7 46 6 30 3-35 4-9-3-29 1-1 4 5-3-11zM607 567l-8 61-6 2 6 5-7 19-3-1 0-3-1 3-2 0-9-18-6 0-5 31-2 1-4-7-6-33-6 0-3 6 5 44 3 0 1-5 2 0-2 33 8-16 2-13 3 0 6-25 2 0 0 12 3-9-3-10 1-2 6 11 7 3-4 24 1 1 1-4 7-6 8 15 8-46 2-27-1-14-3-7 1-11zM686 565l-13 9-4 6-3-1-3 5-2-6-2 5 2 19 3 1 0-5 7-11 7 21 3-1 6-25zM277 558l-6 0-2 8 1 4 2 0 1-3 4 3zM316 555l-4 3 2 22 4 9-3 19 9 30 3-18-8-25 7-10 3 3 1-5-2-10-1 2-2-1-6-18zM531 554l0 13 4 3 3-1 1-7-5-5-1 1zM795 551l-1 10-2 0-1-8-1 14 3 9 2 0 6-13zM811 550l-8 11 7 10-3 9 2 4-2 16 2 4 1-4 2 0 5 12 4 4 2 15-3 5 1-2 2 4 5-2 7-48-8-8-7 19-2 0zM253 522l-7 0-3 18-2-17-4-3-4 3-5 18-5-4-8 5-2-1-5-16-3-1-1 25 1-17 2 0-2 26 2 24 5-35 4-2 2 8 6-12 4 11 6 34 2-17 2 2 3 15 2-6 2 5 5-45 7 41 2-15-4-41zM931 508l-7 29-2 0-6-15 0 2-3 1-2-11 3 22-3 0-1-5-1 5 1 8 7 6 0 5 8 20 5-10 5-55zM888 506l-13 38-2 0-3-10-9 32 1 5-5 40 2 0 2 18 5-52 3 1 5 12 5-25 0 10 2-8 1 5 4-1 1 5-3 17 9 25-1-20 3-2-6-69 2-13-1-7-1 1zM175 489l-3 1-2 4 3 35 3 7 9-25 2 0 0 6 2-6-10-20zM930 484l-4 29 7-28zM146 471l-8 3-4 4-1 6 7 21 2-7 1 3 6-15 11 49 1-17-5-33-2-3 1-4zM231 443l0 23 7 6 7 0 1-7-2-5-1 5-2 0-6-17zM845 437l-3 37 0-2 2 0 2 13 3-5zM974 415l-7 4 1 3-2 2-5-1-6 51-2 2-2-6 6-48-7 52 6 19 3-27 2 0 6 63 3-16 3 5 6-66-5-7 1-17 3-4 0-6zM251 406l-2 10 4 1 1-2 3 3zM838 377l-5 62 6 13 2-30-3-38 2 0 3 16-1-20zM155 374l-4 7-4 31-2 0-1-9-1 4 1 15 4 3 4-3 2-21 2-2 2 8 3 1 3-1 2-8-1-20-2 12-2-11-4-1zM422 362l-2 17 9 5zM804 354l-3 1-2 7 1 8-6 52 2 2-1 8 7-13 7 9-5 12 9-14 4 7 6-4 1-10-3-27 2 0 3 17-4-34-6 0-2 5-2 0-3-20-2-5zM396 352l-5 28 0-2 2 0-1 13 8-10 8 55-5-63-3-6-1-14zM724 342l6 49 4-18 2 0-3 32 2-3 6 9 4-13-1-6-2 13-6-39 2-12-4-8zM904 339l-9 38-2 18 5 47 6-20 9-3 2 1 3-4 6 31 3-11 2 0 4 40 4-3 6-24-4-1 3-32 2 0 1 9 1-9-4-3-5 4-1-1 2-25-3-6-6-3-7-24-1 4-3-5-1 2-6-17zM489 331l-8 3-8 37 6-11 9 4 8 26-4-36 1-7 2 7-3-21-1 3zM563 329l-8 36 14-33zM767 315l-4 3 0 8 2 4-1 10 4 48-7 1-3 10 0 9-2 1 1 3 3-12 2 0-2 12 1-2 2 3 5 20 1-12-2-2-3-26 1-1 7 9-1 4 7 21 2-4-6-43 7-23-2-2 1-11 2 4 2-14-8-6-6-11zM871 313l-3 1-2 5-8 46 5 0 7 66 3 2 7-17 0-16 2-1 6 3 4-14-8-61-2 5-1-6-1 4-2 0-3-14zM625 302l-4 56 1-5 2 0 7 18zM543 287l-3 1-10 20 4 2 0 22 6 8 1 10 7-31 2-3 2 7 1-4-1-8-8-17zM631 281l-5 3-2 10 4-7 0 6zM723 263l-7 7-4 23-2 34 6-8 5 17 3 3 4-3 3-20-5-46zM601 261l-3 1-1 6 6 54 3 0 3-14 2-3 7 48 1-8-5-22 3-16-4-7-8-36zM696 244l-10 19 2 6-3 4-1-3-3 2 1 5 3 1-4 2-2 6-2-15-2-3 1-5-3-4-3-15-7 0-9 6-5 63 3 7-3 37 5-16 5 17-2-9 1-1 4 5 4-36 5-6 2 1 3-2 1 3 2 0 3-10 5 38 9-12 1 3 2-12-2-18 4-8-1-3 2-6 8-12-2-11-4 4-4-3zM577 241l-4 3 3 5-4 3 1 5 3 1 3-1 0-7-2-1 4-3-1-4z"/>
<path fill="#0070c7" d="M582 673l-4 3 2 21zM581 614l-3 1-6 14-15-13-3 1-3 6 7 41 9 12 7-39 9 17 7 2zM505 613l-5 63 7 0 3 2 2-7 2-35-5-20zM521 602l-3 1-1 5 3 22 4 8-1 20 1-15 2-2 4 6 6 64 7-23-2-14 1-1 3 4-3-14 0-9-4-3-1-9-4-2-6-19-2-16zM341 601l2 4-1 4-5-6-2 0-1 3 5 41 4-25-1-13 2 0 1 5 1-2-1-7zM451 599l-3 1-1 7 3 22 3 5 1-4 4 3 4-11 2-1 2 3 1-5-6-13zM389 598l-3 27-2 0 2-26-3 15-5 1 4 30 9 19 5-56 2 0 1 8 0-11-2-3-1 4-1-5zM416 594l-4 3 0 6-6 4-3 23 2 5 9 0 8-7 4 21 4-7 2 0-2 22 7-23 2-2 2 5 1-3-1-15-7-4-5-25-8 0zM823 590l-5 12-1-2 5 38 5-2zM713 577l-6 60 6-18 2 3-1-9 7-26 1 6-3 19 4-19 3 1 3 7 7 58 3-24-10-30 1-2-7-26-2 6zM779 575l-3 24-4 8-2 23 8-3 8-30-3-19zM809 573l-7 27-3-1-2-16-3-2-2 29 2-22 2 0 1 6 2 1 5 52 8-62zM734 573l-5 7 4 3 6 44zM678 572l-13 8 5 6zM357 567l-4 3-6 28 1 5 2-5 2 0 8 41 5-35 6-5 2 4 1-9-4-12-8-1 0-11zM660 564l-8 19-7 9 9 15-4 8-5 41 8-29 2 0-4 57 8 9 6-48 2-4 1 3-3-34-4-10-1-17 1-1 1 2zM532 555l-1 8 5 25 6 12 3 1 3-1 2-7-2 5-3 1 4-25-14-16 0 4-2 0zM845 553l-7 33 8-7 7 1zM912 542l-5 22 2 2 9-9 5 13-4-27-4 2zM303 533l-4 1-3 17-6 5-2 5 0 7 1-9 4 1-4 27 3 8-1 7 2 5 1-2 4 14-2-24-1 1-1-2 2-4 2 1 1-5 2 0 5 25 7-30 3 5 1-4-2-7 1-4 1 3-1-13 2 0 6 20 8 13-5-25 2 0 4 10-3-17-5-13-6 0-7 9-5-22zM275 532l-3 1-3 8-2 16-5-4-3 1-2 7 1 15 1-8 2 0 7 35 5-42 2 0 2 27 7-10 1 4 3 1-1-13-2-2-6-33zM281 559l4 11-1 8-4-14zM889 517l-2 19-4 7-2 21-3-1-7-27-7 27 8-10 6 10-2 15 3-13 0 10 7-6 6 33 0-4 3-2zM250 497l-5 4-2 15-6-2-3 1-2 7-6-11-6 0-3-6-3-1-3 1-3 7-5 0-4 8 3 11 1-6 2 0 7 22 11-7 5 12 8-28 2 0 2 27 2-5 5 0-4 29 2 10 4-35 0-16 0 3-2 0 1-12 2-1 2 2 1 20-1-24 2-22zM152 479l-1 2-2-1-1 6 2 1 2 12 0-7 2 0 6 43 2-19 2-3 1 4 1-9-9-19 0-5-2-4zM285 450l-2 15 4 3 2-1-2-2zM939 449l-8 31-6-6 6 14 2 0 1-7 2-3 7 29-6 10-3 18 1 17 2-11 3 14 6-28 4 16 8 11-8-32-4-52-1 8-2 2-4-2 6-29zM113 445l-3 1-1 4 9 19 1-13 3-3-4-1-2-6zM220 394l-2 6 3 7 0-10 7 15 4 36-3-47-8-4zM908 393l-2 6 1 22 5 3 4-6 1-21-4 2-2-5zM195 385l-1 7 4 11 3 1 3-12zM992 384l-3 1-2 7-4 41-2 0-1-12-4-3-2 6-1-2-3 24 6 7 0 6 8 4 4-3 13-59 0-6-3-6zM866 379l-1 19 7 39 3-8-1-4-1 5-2-5-1-22-4-13zM951 349l-2 2-2 27-7 9-6-1 3 5-3 32 4-5 2 1 3-4 8 43-1 6-2-8 4 27 1-7-2-6 6-41 0-23 1-1 1 2 1-6 2 0 6 22 5-4 1-12-6-19-6 0-1 4-2 0 2-29-4-4-2-8zM886 340l4 57 2-9zM106 339l-2 9-2-8-2 9-2-3 0-6-1 11 3 6 3 1 3-1 2-5zM766 314l-4 3-2 16 1 16-6 12 3 10 3-25 2 0-5 62-2 0-6-50 1-1 1 2 0-5-3 7-7 47 3-9 2 0 5 17-3-19 1-6 7 21 7-21 7 9 1-2-6-79 1-1 3 5 0-6zM815 308l-3 1-4 9-8 2-6 24 7 32 2-18 2 0 6 34 7-14 3 1 0-14 4-1-5-48-2-7zM534 306l-4 3 4 1-2 21 7 8-6-30zM859 296l-7 45-4-4 0 2-2 0-5-38-2-3-2 3-2 13 4 49-1 17 8 32 4-31 2 0-2 26 8 31 1-11-2-4-4-53 3-2 2-24 9-20-1-10-2 8-2 0zM545 295l6 21 3 23-2-28zM505 286l-6 14-4-7-6-4-1 5-5 7-3 13-9 12 6 10 8-31 7 26 9-29 10 62zM749 279l-3 0-4 19-3-1-11 50 5 3 4 12 6-44 2-5 2 6zM618 273l-3 1-7 17 2 10 6 12 3-10 7-12-5-17zM792 263l-6 20-2 0-1-5-11 42 2 10 7 4-1 9 5 4 4-6 4-48zM671 256l-4 60 8-5-3-39 2 0 4 30-1 11 9 31-7 29 7-2 6 48-5-69 2-20-3-19 1-9 4 11-3-18-3-1-2 3-7-18-1-20zM540 218l-7 55-2 0-2-6-7 36-7-6 6 26 5-12 3-26 3 1 2 6 6 2 3-4 1 2zM601 217l-4 3-12 52 7 33-3 6-1 9 8-27 8 37 2-10-5-51 2 0 3 16-1-18-3-9 3-38zM640 209l-3 1-10 35 5 36 2-3 6 9 4 22-1-18 2 0 6 28 6-64-7-18-5-23-2-4zM561 208l-6 11 3 12 2 36 7 27 5-6 2-10-6-67z"/>
<path fill="#007ac2" d="M576 645l-2 16 6 36 2-29zM516 629l-7 4 2 4-3 34 0 6 8 6 3-26-3-23 3-4zM542 625l-5 4-2 26 1 6 1-6 2 0 1 15 7 10 6-3-5-40 2-6zM609 596l-4 3 0 11 2-11 2-3 1 3-6 77 7-46 2-3 2 8-4-36zM475 593l-4 3-5 29 2 4 0-2 3-1 8 25 4-9-4-46zM496 590l-3 1-2 4-6 29 1 6 5-4 6-1 6-11 2-16-2-5zM658 586l-2 0-4 16-5 48 13-42 3 0 0 5 1-13zM431 582l-3 1-6 17 1 3 2-4 2 1 7 36 3-10 2 8 1-16-4-32zM686 568l-16 73 6 2 12 27 3-8 1 2 3-18zM392 561l-3 1-2 4-3 32 1 8-2 3 1 6 4-28 0 17 2-3 6 5 0 4 0-2 2 0 0 5 2-2-4-47zM296 554l-4 1-2 3 4 1-4 24-2 0-1-13-2-1-1 9 9 29 6-19-3-31 2-2zM783 549l-4 24 5 28 9-20 7 21-8-46-2-4zM530 547l-3 5 6 57 2 6 3 1 3-1 6-8 3-8-1-2-3 3-7-13zM351 538l-3 1-3 8-6-3-6 1-6 20 3 10 9 15 6 24 7-22 1-27 7-1 1-2-1-6-6-1 1-14zM906 517l-7 75 8-16 7-29zM268 515l-3 1-5 10-5 16 0 5 4 7 1 13 1-10 3 1 4 45 4-61 3-12 0-10zM250 512l-1 12 4 3 1-12zM949 511l-1 5-6-7-2 4-8-4-6 64 8-16 7-42 2-1 7 5zM889 509l-5 27 0 12 8 50 5-4-6-80zM136 478l-6 3-1 5 1 1 2-3 2 2 5 17-3-20 2-4zM335 473l0 11 6 0 1-7-3 4-2-8zM227 458l-4 3 0 12 2 7 3 1 3-1 5-13-2-6zM159 440l-3 1-4 12-5 1-2 3 3 28 2 1 1 6 1-10 3 10 2 0 2-6 4-31 0-12zM182 439l-3 1-1 4 4 3-2 1-1 5 2 3-1 6 3 19-7 1-4 11-3 3-7 0-1 8 3 6-2 13 0-7 2-3 8 29 5-7-4-40 2-3 10 19 1-1 3 5 2 24 6 17 2-15 2 0 0 6 2-16-1-10 3-9-8-32 1-14-4-3-4 3-2-2 0-6-2-3 1-5-4-3 3-5zM997 435l-4 3-7 36-8 28 1 4 11-12zM107 433l-3 1-3 11 1 3 9 7 6 13-2-9 3-3-1-7-5-4-1-10zM880 399l-6 30-2 0-1-10 1 18 6-15 5 8zM907 390l-3 33 2-2 5 3-2-17 3-3 0-7-2-6zM895 379l-4 38 1-3 2 0 5 25 1-10zM983 370l-4 3-1 10-8 18 1 14-2 8 5-5 0 6 2-3 2 1 3 31 3 1 7-67-5-16zM958 362l-5 54 3 18 5-34 1 2 2-11 2 0 1 5 2-5-8-28zM822 362l-5 19 2-4 2 4 5 31-5-47 4-1zM106 349l-1 13 3 30 4 3 4-3 3-32-2-8-2 9-3-10-4 1zM779 345l-3 8-3 37 1-11 9-22zM831 331l-2 32 3-22zM954 326l-2 0-5 52-7 7-9-2 4 9-4 37 1-5 2 3 7-10 8-59 2-6 2 3zM881 326l-5 11 2 9-5 40 2 23 8-80 0 2-2 0zM837 297l-5 74 0-3 2 0 6 19 2-25-4-54 2 0 3 13-2-21zM743 292l-2 7-2-7-6 25-5 0-3 18-2 0-5-11 5 19 7 5 3-5zM488 285l-8 28 13-21zM773 280l-3 1-4 34-3 0-5-21-3 0-3 7 4 32 5 14 5-30 11 15-2-11 3-15zM529 264l-8 59 5-13 8-2 8-16-7-4zM792 263l-6 77-2 3-3-6-1 6 5 9 7-15 4 16 5-27 4-5-5-4 0-9-1 9-3 1zM696 237l-9 20-1 17-2 0 0-6-3 1-6 15 6 19 4-6 1 2 0-2 2 0 1 11 4 11 2 1-2 13 3-4 2 4 5 33-4-57-2-7 4-8 0-7 7-12 1 2 4-5 1 5 2 1-1 8 2-15-5 0-3-14-5 7-2-2zM562 208l-1 6 3-4 2 8 4 64 4-3 3-16 3 1 0 4 0-21 7 35 7-39-3 1-2 9-3 1-2-5-4-2 2-10-1-4-4 0-4-21-8-1zM626 175l-3 1-2 9-5 64-2 0-8-31-3-1-4 3 0 5 2 0-1 12 3 35 6 25 9-21 5 12 0 5 4-4 4-34-1-11 3-13 3-44-6-10z"/>
<path fill="#0085bd" d="M501 598l1 3-4 23 5-11 2 0 1 4 2-4-2-11zM447 577l-5 20 9 11 0-6 8 7 9 20 8-42-8-7-3 1-7 12-5-16zM633 573l-5 51 8 9 6 36zM566 568l-12 17-9 19-7 9-2-5-2 3-4 22 2 13 2-2 2 3 3-6 1-11 2-2 6 6 3-5 6 30-3-35 3-5 3 3 7-47zM660 567l-4 22 6 14 6 41zM429 567l-4 3-5 30 3 3 7-17 3 1 6 50 2 0 1-4-4-3 3-5-4-3 2-1 1-5-2-3 1-6-2-3 1-5-2-3-1-21-3-7zM398 554l-4 3-6 0-3 5-4 51 3 3-4 3 2 4 2-1 7-59 5 15 3 38 6 19 3-23 2-5 3 1-4-31-3-5 0-12zM379 542l-6 2-4-1-4 3 3 41 3 8-1 6 1-2 2 2 2 7 2 0 2-7 5-55zM944 520l-2 26 3-16zM251 519l1 9 2 0 1-6zM890 507l-2 4 8 72zM216 489l-3 1-3 8-7 1-1 2 1 19 3-6 2 11 5-17 2 0 12 42-4-28 1-6 4 7-1-9-7-16 0-6zM984 473l-4 3-3 22 1 9 4-5 7-27zM946 470l-2 9 6 40zM140 425l-7 18-8 8 0 4 3 4 3 27 10-10 5-2 1 6-4 21 6-15 3 9-2-21-3-2-1-10 1-1 1 3 0-6 2-2 2 7 6-19 2 0-2 26-4 20 9 18 1-9 2 0 0 3 5-3 8-15 4 3 6 44 7 23-5-50 0 6-2 0-3-28 2 0 0 3 1-2-2-17-2-3-6-1-7-5-3-17-6 0-2-4-3-1-7 5-5-15zM274 420l-3 22 6 74-5 1-4-3-3 1-4 10 2 2 5-9 4 3-3 33 5-18 2 0 5 22 3 1 1 12 2 0 2-12 9-3 3-19 3 0 9 43 6 12-4-32 4-5-2-19-6-15-3-1 0-8-5-1-4 2-2-3-4-26-5-4 1-8-3-7-1-16-2 11-2 0zM979 405l-5 12 3 35 0-25 5 28-1 3-3-4-1 1 2 6 4 2 3-1 2-4 0-8-2 5-2 0zM123 391l-3 1-2 4-6 30 1 9-4 9 1 8 3-4 2 4 8-13 4-45zM937 385l4 30 1-5-3-10 2-15zM866 360l-5 54 2-19 2 0 7 38zM911 342l-4 45 3 19 7-6 4-37zM781 335l-2 14 1-6 5 9zM1021 330l-8 5-10 15-2 20 3 4 4 24 5 4 4-3 5-60zM816 308l-4 3 1 8 1-7 2 0 6 52 7-1 3-22-2-20-4-11zM687 258l-4 42 2-3 8 22zM731 246l-8 17-9 9-5 64 12-71 7 55 7 2 3-14 2 0 0 4 5-26 4 25-1-22 2 0 3 20 5-13-6-39-6 22 1 5-1 1-1-2-3 18-2 0zM631 241l-3 2-2 34-4 21 11-19 2 0 7 17 5 45-5-58-8-5zM669 213l-2 13-2 0-1-5-5 12-3 0-4 19 4 7 1-8 8-4 2-3 3 16 2 0 3 24 2 3 7-16-6-54zM624 190l-4 3 1 6-2 3-3 33-6 10 7 26zM606 164l-2 0-3 14-2-12 1 9-3 7-3-11-3-1-3 3-4 58-6 3 0 17-11 42 7-7 9 32-4-70 2 0 8 18 11-42 1 3 0-19 3-3 0-16 2-3zM607 153l-2 0-1 9 4-3z"/>
<path fill="#008fb7" d="M540 631l-6 12 2 18zM473 585l-2 1 2 2-3 33 4-24 2 0 1 9 1-17zM517 578l-3 1-2 7-4 43 2 7 9-6 6 10-2-17 2 0 3 12-7-54zM607 572l-5 50 5-23 2-3 7 51zM572 563l-8 7-6 50 16 15 7-21zM356 556l-3 1-2 6-3 33 1-5 2 4 5-24 3 0 0 9 2-19-2-4zM457 550l-4 3-4 15-2-5-7-3-4 1-5 14 8 64 9 21 6-31-4-27-5-6 4-16 2 0 8 29 2-12 4-8-3-32-2-6zM381 547l-7 59 9 19 5-62 3-4 7 54 6 20-7-75 4 1 0-3-3-3 1-5-4-3-3 1-5 15-2-11zM318 540l-4 3 2 15 6-7 2 4 1-2-2-10zM333 508l-3 1-3 11 4 25 2 5 2 0 1-3 3 0 4 4 0-20-6-20zM279 501l-4 3-1 10-3 6 4 0 6 39 7 22-1-42-4-35-2 13-2-4zM196 464l-4 3 0 5 0-2 2 0-1 20 0-7 3 1 7 36 3-6-1-12 6 0-2 21 5-16-2-5 1-3-5 0-2-2-6-30zM304 456l-1 8 5 49-6 1-1 2 2-2 3 1-4 21 2 1 4-14 2 7 10 6 3-1 2-9 4-63-3-7-1 8-2-5-16 0zM159 437l-5 4 0 2 4-5 1 1-3 13 2-8 2 0 0 6 3-6-1-6zM993 424l-8 35-2 1-5-6-2 0-5 58 6 14 6-49 5 1 8-36 1-15zM94 397l-4 3 1 4 3 1 4-3-1-4zM1028 396l-3 1-7 26-5 6 1 10 5 10zM220 394l-3 10 8 100 11 18-4 4 3 5 2-14 7 9 4-24 3-1-1 14 7 67 5-26-4-13 8-22-6-40-4-3-4 1-7 13-1-9 2-14-3-3 0 3-2 1-7-5-1-21-7 8zM227 461l5 3 1 4-5 10-2-6zM966 388l5 23 3-13-5-9zM946 379l-6 6-3 0 2 10zM138 378l-3 1 6 49-3 9 3-7 2 0-4 38 2 8 5-2 2 3 4 22-4-34 1-12-2-5 1-4 2 5 1-1-2-9 2-21-1-6-1 9-2 0-7-40zM166 372l-2 28 4 44 5 3 4-3 3-49-1-5-1 11-2 0-1-10zM994 322l-6 33-2 1-1-2-4 26 2-7 2 3 5 23 2-12 6 11 2 0 2-18 2-4 3 0-4-10 0-16-1 10-2 0zM870 314l-5 2-1 7-9 20-6 50 3-22 9-6 9-48 2 0 1 7 1-7zM823 280l-11 9-7-6-8 42 8-4 5 0-3 25 7-34 4-3 8 3 1 5zM747 279l-3 38 1-4 2 5 5 41zM708 264l-8 7-3 35 0-4 12-24zM778 243l-8 38 6 38 9-34zM578 240l-1 19 5 47-3-44 1-17 0 2-2 0zM650 185l-3 5 4 59 4 3 7-27-3 8-3-1-4-46zM605 177l-3 1 0 8-1-6 3 35-5 1-3 23 3-14 2 0-5 62 4-26 8 32-5-68 2 0 6 25 8-14 2-17-13-41z"/>
<path fill="#009ab2" d="M483 583l-10 5 3 9 5 50 9-28-3-33zM425 559l-9 3-4 28 0 8 3 4 1-5 7 6 5-32 2 0 2 5-1-11-2-4zM528 553l-4 1-5 11-18 10-3 19 4 5 8 37 7-55 8 43 3-2 4-44-1-24zM460 550l-6 0 0 6 2 0 1-3 1 3 2 0zM497 525l-4 3-8 32 1 13 2 5 3 1 4-3 6-46-1-4zM375 508l-3 0-6 7-6 26-3-15-3-1-4 3-3 24 4-11 1 7-4 48 7-36 3-1 0 10 3-22 7 3 1-4 4 1 6-2 3 6 2 15 6-5 2-5-9-34-1 5-2 0zM332 505l-4 3-5 33-3 0-4-8-4 0 2 4 2 21 2-15 3 3 8 24 6-19-5-30 3-10 2 6 1-9zM972 489l-2 24 6 11zM289 483l-3 1-2 5-2 18 6 55 1-9 2 1 0 5 6-3-7-60 2 0 4 23-3-33zM260 475l-7 2-1 5 1 3 2-4 2 1 7 43 4-8 1 3 2-1 0-8-5-30-2-5zM223 466l-5 4-5 30 2-7 2 0 0 6 7 17 11 15 1-15-8-13-2-21 10 4 8 40 5-25-1-8 2-2-7 0-2-8 0 8-2 3-6-27-6 13-2-13zM181 437l-4 3 2 22 5 7 0-3 2 0-1 11 0-3 2 0-1 10 1-3 1 4 2-7-4-35-2-5zM210 431l-3 1-8 18-8 11 3 16 1-9 2 0 7 33 4 0 6-55 0-12zM123 414l-3 24-6 9 2 11 6-5 2 3 5 32 4-5-1-18-4-11 1-12-2-25zM141 403l-3 1-1 4 2 7 3 1zM155 373l-8 63-3 0-1-10-4 3-1 10 4-10 1 7-5 27 3 13 3-33 3-3 3 9 8-11 8 64 5-3-5-51 2 0 2 13 1-5-4-30-4-10 2-10-2-14-1 12-2 0zM967 335l-7 25-3-1 0-6-1 8 4 7 5 21 7 12 0 7 4-15 5-9 2-11 2 3 3-25 0 4-2 1-6-10-7 49zM1032 324l-2 0-1 3-2-3-2 2-10 52-1 20-3-1-4-24-3-4-1-19-1 12-2 0 0-4-5 33 1 2 0-4 2 0 0 11 1-1 1 2-6 25 2 1 0 4 1-14 3 0 1-7 9 31 2-6 2 4 1-6 6-9 5-19 7-75zM869 314l-1 4 4-1 5 28 4-11 0-8-3-13zM88 300l5 85-1 4-2 0-1-10-4-3-4 3 0 8 4 17 4-1 3 8 5 26 4 3 1 8 5-12 2 6 2-5-1-19-4-5-3-10 3-38-2-11-2 0-4-8-6-47zM821 279l-10 12-8 31 6-2 4-17-1 20 10-40zM709 257l-8 12 6 12 4-6zM636 132l-4 15-3 0 0 3-2 1-5-5-5 6-7 41 4 9 6 29 6-53 2 3 1-2 4 5-7 87 3-23 11-36 10 35 6 12-2-6 1-4-5-54 2 0 3 25-3-37-2-1-6 17-2-7 0 2-2 0zM593 117l-2 18 2 41 6 38 4-3 2-34-1-8-2 8-2 0z"/>
<path fill="#00a5ad" d="M530 547l-2 4-3-3-1 2 1 11 3-5 2 8-6 58 8 24 5-37zM499 544l-4 3-2 16 1 8-2 0-1 5-1-3-2 0-8 13 0 2 4-1 4 40 6-31 2-3 5 3 3-20 3-2-3-24-2-5zM364 541l-4 3 3 41 2 5 1-5 2 0 5 18-5-56-5-3zM411 519l-4 3-1 17-2 0-1-4-7 0-4 10-1 11 3-5 1 4 8 6 1 19 0-2 2 0 4 29 6 2-1-18 3-26 3-2-2-4-3-37zM460 506l-3 1-1 5 7 67 3 8 2-4 8 7 2-3-14-78zM248 489l-4 3 0 2 4 0-2 23 3-16-1-8 2-2zM368 468l-4 4 6 36 2 5 2 0 1-5zM195 460l-4 3-2 20 3-13 2 0-1 20zM285 449l-2 17 3 12-5 39 1 7 2 0 2-5-1-19 4-16 7 35 5-3 5-40-1-12-7 0-4 8-8-8zM328 435l-2 21 3 23-3 5-1 9 5 22 1-6 2 0 6 21 2 0 1-7-5-35 4-9-3 3-2-23zM260 424l-3 10 3 39 3 9 6 38 7-1 2-13-2-2-6-31-1-19-1 14-2 0zM90 400l-5 4 3-2 2 2 8 35 1-5-6-31-1 2 0-5zM197 397l-1 6 6 32 5 5 2-5 2 0-6 66 8 0 3-9 1 6 2-28 4-3-5-58 0 3-3 1-2 4-10-12-4-8zM166 385l-2 1-4 31-7 5 2 2-4 24 7-10 2 3 0 9-2-29 3-2 2 4 2-1 2-6 1-16zM1005 378l0 2-3 1-12 56 1-7 2-3 1 1-4 42 7-32 4-28 9 11 1-2-6-14 2-17zM989 346l-6 25 2 5zM106 336l-1 15-2 4 7 80 4 3 3-5-2-6 8-35 3 2-3 5-1 19 2 0 5 70 2-30-3-6 4-6 3 0 8-19 1 3-3-25-2 0-2-21-1-3-3 1-3-2-6-12-4-26-4 29-2 1-1 19-2 0zM69 326l-3 1-1 5 1 1 2-4 2 6 8 65 2-5 2 3 4-38-7-6-6-25zM1025 316l-6 15-6 68 1 8 12-68 1-17zM84 306l-6 7-3-3-1 4 2 3 6 0 3-6zM839 283l-2 17 8 32zM873 282l-9 39 7-5 8 0zM825 276l-5 3-2 4-8 50 4-21 9 0 8 27zM669 213l-6 35 3-2 2 1 2 13 2 0 1 11zM558 197l-8 9 6 15 8-11zM604 175l-2 1 1 9-3 25-2 0-1-13 2 22-3 20 6-21 9 32-7-69 2 0 3 10 0-7-2-8zM636 159l-3 1-1 4 2 3 1 26 5 18 3-9-3-40z"/>
<path fill="#00afa7" d="M519 534l-4 3-5 35 12-5 6-13zM482 523l-4 3-5 49 1 12 2 3 8-4 6-9-2-16 8-30 1 6-5 37 3 19 5 2-4-39 2-8 2 0 1 8 2-8-2-19-4-3-4 3-3 23-4-26zM444 523l-4 3-6 33 2 7 2 1 1-4 6 3-3 46 14-59 2 0 1 8 2-8-2-19-6 0-2 5-3-13zM285 504l-4 18 6 49 2-28zM276 499l-1 6 3 2 1-7zM424 482l-8 11-2-1 0-3-3 8 3 5-7 1-5 56 1 10 2 1-2 1 1 7 6-55 3 0 1 9 0-26 2 0 2 5 6 0 7-13 0-8zM342 477l-8 8 9 76 7-16 3-16 2 0 6 71 5-13-3-36 2-15-5-22-6 0-2 9-2 0-5-41zM396 472l-3 1-2 5-3 23-7 27 9 33 6-19 4-65-1-4zM301 454l-7 18 7-6 2 1-6 51 6-4 3 1 6 19 5 8 8 6 7-40-4-16 1-3-3 1-3 11-3 32-7-6-7-69zM180 438l-3 1-6 8 1 13 2 3 9 3-3-21 1-5 2 3 3 26 1-8-4-22zM247 429l-7 67 10-5 6-12 5-1 1 3 2 0 0-8-8-33-1 5-2 0zM213 421l-5 14-3-1 0-4-3 4-3 16 1 2 2-1 7-16 2 0 6 63 4-27 3-1 1 7 0-14-8-39zM1006 388l-3 1 2 24 3 6 2 0 2 16 7 14-8-49-3-11zM123 363l-1 8 10 78 4-7 5-41-5-22-4 0-6-15zM100 349l1 12 4 11-4 12-2 24 1-2 2 1 3 13 1-2 4 34 7-19-2-4 0 5-2 0-4-55-3-4-1-8 2-12-2-5-2 5zM1033 321l-3 2 0 6-2 0-1-7-2 7-1 21 3-18 2 0-8 92 8-28 8-48 3 5 1-9zM953 312l-3 45 1-5 7 12zM52 236l-2 41 3 45 3-1 2 4 1 23 8-20 2-1 3 2 7 29 4 3-4 37 1-3 3 4 1-2 1 7 3-2 2 5 5-20 2 0 0 3-1-16-3-6-4-66-7 13-3 2-8-9-3-10-1-14 0 2-2 0-2-11-10-24zM85 379l3 12-1 6-3-11zM610 127l-1 9-2 3-1-1-1 7 1 24-4 4 1 8 1-3 4 3 0 7 5 11 8-52-6 7z"/>
<path fill="#00baa2" d="M332 473l-4 3 0 9 5-4zM355 441l-3 10 0 12-10 14-1 5 9 62 7-28 6 28 6-26 2-2 5 5-9-52-5 5-2-2zM449 433l-4 7 1 4-3 8-5 48-2 0 0-4-2 8-2-1-1-13-8 17-3 1-6-12 1-3-7-37-5 30-2 0-6-32-3 22 1 8 2-8 2 0-2 28 2 38 1-4 3 0 3 42 6-75 7 60 8-5 8 19 6-14-2-5 6-33 2 0 1 10 1-4 2 4 1 15 2-13 2 0 0 6 2-9 6 58 5-9-6-63 2 0 5 32-4-43-4-3 4-32-3-2-2 7-2 0zM259 426l-5 22 8 29 5 34zM164 386l-4 31 4-23 2 0-4 27 8 40 6 3-2-15 2-3-1-14-1 11-3 0-5-57zM84 383l-3 12 4 9 3-2 0-5-2-1zM138 378l-5 3 8 25zM180 375l-2 16 1 33 9 61 6-23 4-5-1-3 3 0 3-6 2-18-6-28 1-3-7-24-3 11-2 0-2 5zM1006 370l-4 11 2 6-3 23 0-3 2 0 5 12-2-26 1-1 3 4-3-10zM119 327l-3 56 3-14 2 0-5 57 5-29 2-3 5 58 6-5-9-77 1-6zM66 329l-1 6 2-5 3 0-1 4 2 0 2 9 1-2 4 16 5 4 0 3-2-16 2 0 13 37-2-47-3-1-5 16-6-27-3-1-5 4zM1025 316l-7 67 10-52zM1054 253l-7 82-2 0-4-38-2 0-2 4 4 54 4 5 3-18zM40 229l-5 31 2-13 2 0 6 80 1-3 5-1 3-46-1-16-2-6-1 8-2 0zM651 178l-1 10 5 32zM629 149l-4 34 1-5 7 10 7 23-3-36 2 0 4 27-3-39-2-7zM606 138l-3 44 0-3 2 0 8 20zM593 115l-7 95 5-37 8 38z"/>
<path fill="#00c59d" d="M425 507l-3 5-4 53 7-3 7 15zM397 490l-6 69 7-21 2-1zM354 443l-6 27 13 66zM328 440l-7 93 11-57zM273 424l-6 50 9 45 3-19zM470 415l-9 79-3 2-2 19-2 0-1-5-3 33-2 1 0 14 1-5 2 8 4-24 2 0 0 10-1-19 4-19 5 29 4 5 5 32 5-49 2 0 0 8 0-7 2 0 5 36 7-30 2-35 9-16-2-2-2 3-7-4-3 7-1-6-3 0-6-41-3 1-4-3zM219 396l-6 28 9 34 5 35zM179 381l-6 68 8-9 5 33zM192 377l-6 18 9 66 6-8zM165 376l-5 41 6-29zM105 342l-6 66 7-28 3 0 0 9zM72 301l-3 1-3 7 2 20 2 1 6 26 6 4-4-19 1-5 9 26 2-8-9-43-2 4-3-3zM1041 295l-1 3-1-2-9 27 8 26 7 13-4-49 2 0 1 7zM637 122l-9 29 8 8 7 43z"/>
<path fill="#00cf97" d="M407 459l-5 30 8 10 3 33zM394 458l-6 41 7-21zM469 404l-2 14 2 51 11 71 1-13 2 0 3 25-6-75 2 0 4 25 1-4 2-1 1 2 3-3 1 1-5 63 7-31 2 0 6 47 9-5 6-34-8-66-8 10-8 15-2 0-1-5-1 2-6-33-1-24-5 2-2-2zM118 332l-6 64 7-27 2 0zM86 300l-7 18 9 44 6-24-3-32-2-6zM67 284l-8 65 2-11 1 3 4-9 2-19 2 0-1-3 3-1-1-4 2 0z"/>
<path fill="#00da92" d="M447 442l-6 9-6 54 9 18 7 38 2-17-1-21 3-1 3-23 2 0 15 91 7-64-8-41-1-24-2-3-3 1-6 6-7 51-2-5 0-10-1 7-2-10zM66 308l-4 33 7-12 5 20-5-40zM90 299l-4 1 7 34-1-27z"/>
<path fill="#00e48d" d="M485 454l-5 16 6 32 5-8zM448 434l-6 12 9 115 4-41zM53 264l-3 1-5 62 4-28 1 9-2 16 8-3z"/>
<path fill="#00ef87" d="M484 440l-3 26 5 36 7-6zM51 243l-6 86 8-65zM40 229l-2 10 2 6 5 55z"/>
<path fill="#00fa82" d="M468 409l-6 60 10-10z"/>
</g>
<g font-size="10" fill="#262626">
<text x="823.5" y="352.4" text-anchor="middle">Function Topology</text>
<text x="690.3" y="512.9" text-anchor="end">0</text>
<text x="690.3" y="484.8" text-anchor="end">1</text>
<text x="690.3" y="456.7" text-anchor="end">2</text>
<text x="690.3" y="428.6" text-anchor="end">3</text>
<text x="690.3" y="400.6" text-anchor="end">4</text>
<text x="801.9" y="572.8" text-anchor="end">-1</text>
<text x="745.9" y="547.1" text-anchor="end">0</text>
<text x="689.8" y="521.4" text-anchor="end">1</text>
<text x="809.9" y="573.3">-1</text>
<text x="846.4" y="563.4">-0.5</text>
<text x="883" y="553.6">0</text>
<text x="919.5" y="543.7">0.5</text>
<text x="956" y="533.8">1</text>
<text x="742.9" y="576.1" text-anchor="middle">x<tspan font-size="7.8" dy="3.0">2</tspan></text>
<text x="876" y="578.1" text-anchor="middle">x<tspan font-size="7.8" dy="3.0">1</tspan></text>
<text transform="translate(681.1,446.7) rotate(-90)" text-anchor="middle" xml:space="preserve">F7( x<tspan font-size="7.8" dy="3.0">1</tspan><tspan dy="-3.0"> , x</tspan><tspan font-size="7.8" dy="3.0">2</tspan><tspan dy="-3.0"> )</tspan></text>
</g>
<g font-family="Liberation Serif, Times New Roman, serif" fill="#000" stroke="#000" stroke-width=".5">
<text transform="translate(801.8 641.8) scale(.875 1)" font-size="46" font-style="italic">F</text>
<text transform="translate(824.5 651.5) scale(1.15 1)" font-size="31.3">7</text>
</g>
</g>
<g id="f9">
<path d="M146 894.7L33.9 843.3M33.9 843.3L33.9 731.1M219 875L106.9 823.6M106.9 823.6L106.9 711.4M292 855.3L179.9 803.9M179.9 803.9L179.9 691.7M146 894.7L292 855.3M292 855.3L292 743.1M89.9 869L236 829.6M236 829.6L236 717.4M33.9 843.3L179.9 803.9M179.9 803.9L179.9 691.7M33.9 843.3L179.9 803.9M179.9 803.9L292 855.3M33.9 820.9L179.9 781.4M179.9 781.4L292 832.8M33.9 798.4L179.9 759M179.9 759L292 810.4M33.9 776L179.9 736.6M179.9 736.6L292 788M33.9 753.6L179.9 714.1M179.9 714.1L292 765.5M33.9 731.1L179.9 691.7M179.9 691.7L292 743.1" fill="none" stroke="#e6e6e6" stroke-width="0.7"/>
<g transform="scale(.1)" fill="none" stroke-width="6" opacity="0.95">
<path stroke="#0020ef" d="M1970 8649l-12 0-1-6 16 2-3 4M1705 8645l-20-4-7-6 10-9 28-1 16 4 4 7-12 7-19 2M1854 8606l-27-3-7-6 2-5 10-6 19-2 29 5 3 10-11 5-18 2M1998 8566l-23-3-6-6 1-4 10-6 20-1 22 4 5 8-11 6-18 2M1571 8679l-22-1-2-8 31 0-7 9M2133 8522l-5-3 5-8 25 2-3 8-22 1M1619 8595l-37 1-17-4-7-6 2-8 10-6 43-1 15 4 6 7-4 7-11 6M1767 8556l-43 1-16-4-8-6 4-9 11-6 45-1 16 4 6 7-4 8-11 6M1911 8516l-39 1-17-3-7-7 3-8 11-6 41 0 15 4 6 6-3 7-10 6M1447 8633l-19-4-7-6 10-8 27-2 17 3 5 7-13 8-20 2M2033 8476l-25-4-6-6 13-9 25-1 15 4 6 7-10 6-18 3M1510 8544l-44 1-15-4-7-6 3-9 10-6 46-1 16 4 6 6-4 10-11 5M1639 8508l-46-5-6-8 3-9 12-6 23-2 41 5 7 6-4 11-30 8M1784 8468l-44-5-6-7 4-9 11-5 46-1 19 9-2 10-28 8M1338 8583l-25-5-5-9 9-7 32-1 17 3 5 7-13 10-20 2M1924 8426l-31-4-5-7 13-10 29-1 16 3 5 10-9 6-18 3M1197 8614l-11-1 0-4 16-1-5 6M2073 8377l-16 1 5-6 11 1 0 4M1397 8492l-41 1-15-4-6-6 3-7 10-6 39-2 17 4 7 6-3 9-11 5M1526 8456l-27-1-16-4-6-7 4-9 11-5 43-1 16 3 8 7-4 9-11 6-18 2M1689 8414l-43 1-15-4-6-7 4-7 11-6 37-1 17 4 7 6-2 8-10 6M1224 8531l-20-5-6-6 10-8 25-2 18 3 6 7-13 9-20 2M1810 8374l-26-4-5-7 13-8 20-2 19 4 7 8-10 6-18 3M1126 8475l-25-3 3-7 22-1 5 3-5 8M1259 8440l-22-4-5-8 11-6 23-2 18 3 6 6-11 10-20 1M1408 8402l-29-5-5-7 13-8 27-2 18 3 7 6-2 5-10 6-19 2M1552 8362l-25-5-4-7 12-7 19-2 20 4 7 8-10 7-19 2M1710 8317l-29-3 7-7 22 1 0 9M1302 8343l-16-2 3-4 12 0 1 6"/>
<path stroke="#003fdf" d="M1943 8743l-28 0-7-7 8-6 20-1 14 4 2 3-9 7M2091 8705l-34-1-8-8 10-6 25-1 14 4 3 5-10 7M2236 8664l-31 0-8-6 11-6 22-1 12 6-6 7M1845 8698l-43 2-18-4-8-6 1-8 12-10 54 0 14 4 5 7-5 10-12 5M1975 8662l-48-4-8-6 0-9 14-11 18-2 53 7 6 6-6 11-29 8M2120 8622l-46-4-8-6 1-9 14-10 19-2 47 7 5 7-4 9-28 8M1675 8737l-29-4-7-6 0-6 10-6 17-3 39 5 4 8-4 5-11 5-19 2M2260 8580l-34-3-7-6 2-9 12-5 20-2 32 6 3 10-10 6-18 3M1536 8769l-20-1-4-7 12-3 20 3-8 8M2392 8534l-9-4 8-7 24 3-2 7-21 1M1742 8651l-65 0-17-3-7-6 0-8 4-11 10-7 76 1 16 4 4 7-9 18-12 5M1891 8613l-71 0-18-3-7-7 0-8 5-13 10-6 80 2 16 4 4 7-9 18-10 6M2035 8572l-41 3-45-5-7-6 0-9 6-12 11-5 73 1 15 5 5 6-7 17-10 5M1573 8690l-50-5-8-6 0-8 13-12 17-2 45 2 15 4 6 6-8 14-30 7M2158 8533l-56-4-8-6 1-8 5-8 12-6 58 1 14 4 6 7-2 9-13 8-17 3M1417 8725l-28-4-7-6 1-5 8-7 42-2 15 4 4 7-4 6-12 6-19 1M2295 8490l-36-4-7-6 4-8 12-6 35 0 15 4 4 11-9 6-18 3M1486 8640l-66-1-16-4-7-6-1-8 5-9 9-7 76 0 17 4 4 7-10 18-11 6M1619 8605l-79-6-6-7 6-23 7-7 21-2 90 7 2 7-11 24-11 5-19 2M1768 8567l-90-5-3-8 12-35 118 8 2 8-10 24-11 6-18 2M1912 8527l-87-5-4-7 10-25 8-7 88 3 16 4 5 7-8 21-10 6-18 3M2070 8482l-72 1-18-3-5-7 8-20 11-6 48 0 37 6 6 7-5 16-10 6M1311 8677l-41-5-7-7 1-8 11-8 17-2 52 5 5 6-6 12-32 7M2190 8441l-51-4-6-6 0-5 6-8 12-5 47 0 15 4 6 6-2 9-10 6-17 3M1170 8708l-28-2-3-7 21-6 18 3 4 7-12 5M2339 8393l-18 2-16-3-6-6 13-6 30 3-3 10M1532 8555l-90-3-17-4-6-6 8-25 7-7 120 3-13 35-9 7M1684 8518l-126-6 17-44 126 6-17 44M1825 8476l-120-3 13-35 9-7 21-1 86 8 6 6-8 25-7 7M1358 8592l-69-7-6-7 0-10 5-8 10-6 18-3 78 6 5 6-10 22-12 5-19 2M1943 8435l-61-2-17-4-5-6 10-22 12-5 72 1 16 4 6 7 0 8-5 10-10 6-18 3M1202 8627l-46-6-7-7 1-8 12-8 17-3 55 5 6 6-7 14-31 7M2080 8391l-55-5-6-6 1-6 6-8 12-5 26-2 39 6 7 6-3 11-10 6-17 3M1061 8658l-33-3-5-6 7-6 17-2 23 3 3 9-12 5M2212 8345l-23-3-4-7 13-7 33 2 5 7-7 5-17 3M1420 8503l-88-3-16-4-5-7 8-22 10-6 85 0 20 3 4 7-10 25-8 7M1572 8467l-118-8-2-8 10-24 11-6 43-1 65 4 3 8-12 35M1712 8424l-92-2-19-3-2-8 11-23 11-5 81 1 17 3 6 7-6 23-7 7M1245 8540l-65-7-6-7 0-8 5-8 10-6 18-3 72 5 5 7-8 20-11 5-20 2M1831 8383l-58-2-17-4-4-7 10-19 11-5 66 1 16 3 7 7 1 8-5 9-9 7-18 2M1089 8575l-43-6-6-7 2-8 10-7 17-2 51 4 6 6-6 13-31 7M1967 8339l-36-1-16-4-5-7 6-11 13-5 44-1 16 4 7 6-1 9-11 7-17 3M947 8606l-29-3-1-8 21-4 16 3 5 7-12 5M2099 8293l-18-3-4-7 12-5 28 2 3 7-4 3-17 3M1147 8484l-58 0-14-5-6-9 4-9 11-6 56-1 17 3 8 6-6 16-12 5M1281 8450l-69-8-5-6 1-9 6-8 10-5 18-3 68 5 7 6-6 20-11 6-19 2M1429 8412l-76-8-4-7 2-8 7-10 10-6 19-2 70 5 7 6-5 22-10 6-20 2M1574 8372l-74-7-4-8 2-8 7-9 12-5 18-2 64 5 7 6-4 19-10 6-18 3M1731 8327l-62 0-15-4-6-7 8-13 12-5 52-1 16 4 8 6-3 14-10 6M991 8519l-35 1-15-4-5-7 10-10 44-1 17 8-4 8-12 5M1868 8283l-42 2-15-4-4-7 4-7 12-5 30-1 17 4 7 6-1 5-8 7M1026 8429l-37 0-15-4-4-7 11-10 46 0 13 7-2 9-12 5M1159 8394l-33-2-14-4-5-7 4-9 11-5 41-3 22 4 8 6-4 13-11 5-19 2M1308 8356l-39-2-14-5-5-9 5-8 11-6 42-2 24 4 8 6-3 14-11 6-18 2M1452 8316l-36-2-14-5-5-6 5-10 12-5 43-2 18 4 8 6-2 12-11 5-18 3M1610 8271l-41 2-15-5-4-7 15-10 30-2 18 4 7 6 0 6-10 6M868 8463l-24-3 2-7 21-1 9 4-8 7M1744 8226l-21 1-9-4 9-7 20 1 1 9M1051 8334l-18 1-16-6 6-8 22-1 17 8-11 6M1180 8298l-19-5-3-6 10-6 34 1 8 6-10 8-20 2M1324 8257l-15-4-2-4 9-6 28 0 7 7-8 5-19 2"/>
<path stroke="#005fcf" d="M1891 8830l-5-7 21 3M2024 8795l-9-8 9-7 27-1 14 4M2166 8756l-8-6 0-4 9-6 20-2 26 5M2314 8716l-8-9 10-6 26 0 14 4M2472 8674l-2-8 18 3M1810 8789l-41 1-18-3-8-6-1-8 12-10 57-1 14 5 4 7-6 10-13 5M1943 8754l-53-5-9-6-2-8 4-9 9-6 71 1 14 5 4 7-8 13-12 5-18 3M2091 8715l-59-4-9-6 0-11 3-9 10-6 53 0 35 7 4 7-8 14-29 8M2236 8675l-57-4-9-6 0-9 4-9 10-6 68 2 14 5 4 11-5 8-12 6-17 2M2395 8631l-46 2-18-3-8-6-1-5 4-9 12-5 52 1 14 4 5 7-4 8-10 6M1655 8824l-36-2-9-8 8-7 33-2 15 5 3 7-14 7M2514 8590l-25-3-7-6 1-5 11-6 22-1 21 5 3 8-9 5-17 3M2012 8668l-116 0-22 33-11 5-19 2-89-4-4-7 4-26-8-6-42-5-56 1-12 6-21 33-126-6-2-8 6-26-7-6-53-6-45 1-12 5-15 25-9 6-90-3-16-4-7-6 3-34-112-10-5-7 5-34-93-8-15-4-6-6 6-24 7-8 92 0 18-3 9-6 7-22-5-6-109-12 16-44 114-1 10-6 9-22-4-7-15-4-89-8-1-8 11-24 11-6 18-2 95 1 20-33 10-6 116 0 22-33 11-6 19-2 89 5 4 7-4 25 8 7 42 4 56 0 12-6 21-33 126 6 2 8-6 26 7 6 53 6 45-1 12-5 15-25 9-7 90 4 16 4 7 6-3 34 112 10 5 7-5 34 93 8 15 4 6 6-6 24-7 8-92 0-18 2-9 7-7 21 5 7 109 12-16 44-114 1-10 6-9 22 4 7 15 4 89 8 1 8-11 24-11 6-18 2-95-1-20 33-10 6M1711 8743l-42 2-46-5-8-6 2-23 5-4-2-6 115 8 1 8-6 13-19 13M2278 8588l-82-3-5-7 13-35 90 7 15 5 4 6-2 10-16 14-17 3M1538 8781l-48-6-8-5 1-14 9-7 18-2 48 2 15 4 5 7-9 14-31 7M2416 8545l-58-4-7-6 0-8 6-9 12-5 58 1 14 5 6 8-4 9-27 9M1398 8812l-37-2-8-8 8-7 33-2 16 4 2 8-14 7M2549 8500l-27-3-7-6 3-6 11-5 27 0 14 4 4 7-8 6-17 3M1877 8663l9 1 0-3 6-5 5-23-7-6-18-3-73 0-11 5-11 20 4 7 16 4 80 3M2023 8623l9 1 7-7 6-24-7-6-18-3-75 0-11 6-9 19 5 7 15 4 78 3M1435 8733l-69-6-7-6 2-21 7-8 20-1 98 4-20 32-12 5-19 1M2313 8498l-92-2 14-34 9-6 23-1 74 9 5 7-6 18-9 6-18 3M1296 8765l-20 2-39-5-8-6 1-8 10-8 16-3 40 1 15 4 5 7-8 12-12 4M2447 8453l-51-4-7-6 1-6 6-8 12-5 48 1 18 8 0 11-10 6-17 3M2589 8401l-20 2 7-8M1116 8789l22 0-10 6M1595 8649l23-2 9-6 4-18-7-6-62-6-18 2-12 5-7 9-2 9 4 7 68 6M1755 8606l15-6 4-15-7-7-17-3-57 0-11 6-7 14 6 6 15 5 59 0M1901 8566l15-5 5-16-7-6-17-4-58 1-11 6-5 8 0 5 6 7 15 4 57 0M2035 8530l21-1 11-6 7-20-6-6-69-5-17 3-11 6-5 8-1 8 6 6 64 7M1170 8719l-51-7-8-6 0-8 12-12 17-3 69 5 4 7-11 17-32 7M2319 8405l-45-5-5-6 10-18 12-5 36-1 37 6 7 7-3 12-10 6-39 4M2487 8354l-17 3-24-3-5-7 14-7M995 8734l17-3 25 4 4 7-14 6M1332 8639l31-2 9-7 4-20-6-6-17-4-73-1-12 5-12 23 3 4-3 4 76 4M2066 8440l27 0 11-6 12-23-3-5 2-3-87-4-18 2-9 7-5 8 0 11 5 6 65 7M1461 8596l39-3 10-6 4-14-7-6-16-4-57 0-11 5-8 15 6 7 40 6M1614 8554l28-2 11-6 4-11-7-7-23-4-43 1-11 6-5 8 6 10 40 5M1761 8515l27-3 11-5 5-12-7-6-49-6-18 3-13 8-2 9 6 6 40 6M1902 8476l36-1 11-6 7-15-6-7-17-3-61 1-10 5-5 14 7 6 38 6M1081 8667l-61-1-15-4-7-7-1-8 13-13 17-2 73 4 5 7-5 11-19 13M2249 8351l-72 2-18-3-5-7 12-19 12-5 46 0 30 5 7 6-3 15-9 6M2378 8304l-30 3-18-3-4-7 16-10M881 8682l30-3 18 3 4 7-16 9M1222 8587l27-3 9-6 5-19-5-6-16-4-76-3-11 6-12 23 3 5-2 3 78 4M1955 8389l24-2 12-5 12-23-3-5 3-3-89-4-18 2-9 7-4 9 0 10 6 7 66 7M1350 8544l37-3 10-6 5-13-7-7-15-4-59 0-11 5-7 16 6 7 41 5M1503 8502l26-2 11-6 4-11-6-6-40-6-27 2-11 6-5 9 7 9 41 5M1650 8463l25-2 11-6 5-11-6-7-50-5-18 2-13 9-2 8 7 7 41 5M1791 8425l34-2 11-5 8-16-6-6-16-4-63 1-10 6-4 14 7 6 39 6M968 8615l-58-1-15-4-7-7 1-8 12-11 17-3 67 4 5 7-3 11-7 7-12 5M2136 8300l-17 3-52-2-17-3-4-7 11-17 12-5 55 0 16 4 8 7-2 13-10 7M2264 8252l-17 3-25-4-4-7 14-7M772 8632l22-3 19 3 5 7-14 7M1270 8492l18-7 6-16-6-6-15-4-70-2-11 6-6 11-1 8 6 7 43 5 36-2M1710 8373l17-6 9-17-4-7-16-4-75 0-9 6-5 10 1 8 7 6 16 4 59 0M1387 8452l33-2 11-6 5-13-6-7-15-4-61 0-11 5-5 16 7 6 42 5M1534 8413l32-3 11-5 7-14-6-7-15-4-63 0-11 6-4 15 7 6 42 6M1015 8530l-82-4-15-4-5-7 0-8 6-10 9-6 18-3 92 1-14 35-9 6M1891 8294l-118-3 20-32 12-5 43-1 45 6 7 6-2 21-7 8M831 8563l-42-6-6-7 2-8 10-6 17-3 51 4 7 6-7 14-32 6M2003 8249l-40-1-15-4-5-7 8-12 12-5 42 0 17 4 7 5 0 9-10 8-16 3M2143 8196l-22 1 10-6M670 8585l20-2-7 8M1295 8404l19-3 11-5 9-19-5-7-79-9-23 0-7 8-6 24 7 6 74 5M1441 8364l19-2 11-6 11-19-4-7-83-8-22 0 0 3-6 5-5 23 7 6 72 5M1055 8442l-90-6-15-5-4-7 1-8 7-10 10-6 17-2 82 3 5 7-13 34M1639 8285l-98-5-17-3-1-8 13-21 12-5 70 0 18 3 8 6-2 23-5 4 2 6M890 8473l-58-1-14-5-6-8 4-9 27-9 58 4 7 6 0 9-6 8-12 5M1767 8237l-66 0-15-4-5-7 9-14 13-5 49 0 17 3 8 6-1 14-9 7M708 8507l-19-5-4-7 8-6 24-3 20 3 7 6-3 6-11 5-22 1M1881 8193l-32-4-2-8 14-7 37 2 8 7-8 7-17 3M1054 8346l-47-3-14-5-4-11 5-8 12-6 17-2 57 4 9 6 1 7-5 11-10 6-21 1M1204 8308l-55-4-14-4-4-7 8-15 11-5 41-2 36 4 9 6-3 19-10 7-19 1M1348 8268l-52-4-14-4-4-7 8-13 12-6 42-2 29 5 9 5 2 8-4 10-9 6-19 2M902 8383l-33-3-14-5-5-6 8-11 23-6 47 4 8 6-3 14-12 5-19 2M1488 8226l-40-3-14-4-4-7 6-10 13-5 41-1 18 3 8 6-1 12-10 6-17 3M743 8416l-21-5-4-6 10-6 22-3 20 2 7 7-1 5-11 6-22 0M1623 8181l-30-5-3-7 14-7 36 1 9 9-8 7-18 2M787 8312l2 8-18-3M945 8270l8 6-10 8-21 2-19-5M1093 8230l8 5 0 5-9 6-20 2-26-6M1235 8191l9 6-9 9-19 1-22-5M1368 8155l5 7-21-2"/>
<path stroke="#007fc0" d="M1728 8875l-9-6 0-5 8-7 18-3 37 6M1861 8839l-9-6-1-8 2-6 9-7 42-1 35 7M1999 8801l-9-5-2-8 3-12 9-7 57 0 35 7M2141 8763l-9-6 2-22 5-4-2-6 67 5 35 7M2288 8723l-9-5-1-8 4-14 10-6 54 1 34 7M2441 8682l-9-6-1-7 4-9 11-5 38-1 34 7M2598 8640l-8-6 2-8 11-6 21-1 28 6M1983 8761l-117 0-10 6-17 24-30 8-83-6-7-6 0-24-8-6-42-5-53 1-12 5-26 31-116-6-4-7 1-25-8-6-50-6-44 1-12 5-18 24-12 5-83-2-17-4-8-6 1-25-4-7-113-10-3-7 3-26-7-6-110-11 4-34-6-6-105-13-2-7 6-27-3-7-87-9-15-4-5-7 1-8 5-14 9-7 104-5 14-15 2-12-5-7-102-13 5-25 11-16 108-4 9-6 9-20-4-7-97-15-4-7 11-22 10-6 18-3 90-1 8-7 21-33 111-2 11-6 20-33 115 0 11-6 24-31 117 0 10-6 17-24 30-8 83 6 7 6 0 24 8 6 42 5 53-1 12-5 26-31 116 6 4 7-1 25 8 6 50 5 44 0 12-5 18-24 12-5 83 2 17 4 8 6-1 25 4 7 113 10 3 7-3 26 7 6 110 11-4 34 6 6 105 13 2 7-6 26 3 8 87 9 15 4 5 7-6 22-9 7-104 5-14 15-2 12 5 7 102 13-2 17-14 24-108 4-9 6-9 20 4 7 97 15 4 7-11 22-10 6-18 3-90 1-8 6-21 33-111 3-11 6-20 33-115 0-11 6-24 31M1654 8834l-58-5-9-6 0-20 8-7 18-2 67 4 15 4 3 7-13 18-31 7M2510 8599l-50-4-7-6 7-24 11-5 21-1 54 5 14 4 5 7-6 14-10 6-39 4M1495 8868l-29-4-9-6 0-8 9-7 17-2 33 1 14 4 4 8-7 7-32 7M2666 8553l-40-2-9-9 5-9 12-5 42 1 14 4 4 7-11 11-17 2M1815 8753l31-1 9-7 1-19-8-6-36-5-42 2-12 5-10 16 3 8 15 4 49 3M1969 8711l18-1 9-6 4-9-1-8-8-6-30-4-42 2-11 5-8 13 5 7 14 5 50 2M2117 8672l16-2 10-6 4-8-1-9-8-6-32-4-41 3-11 5-6 13 5 6 14 5 50 3M2256 8634l28-1 10-5 6-22-8-6-67-4-17 3-11 5-5 8-2 7 5 7 61 8M1415 8820l-36 2-40-6-9-6 1-18 8-7 17-2 68 2 16 4 2 8-6 11-21 12M2583 8505l-72 3-19-3-7-6 10-24 12-5 48 1 37 7 6 6-4 15-11 6M2714 8458l-31 4-19-3-8-7 5-8 12-5M1568 8738l13-1 9-7 2-15-8-6-17-3-53 0-12 5-9 15 4 7 16 4 55 1M2302 8540l20-6 6-8 1-10-7-6-61-4-16 3-11 6-4 8 5 10 15 5 52 2M1213 8834l40-3 15 5 3 7-17 10M1695 8696l23-3 10-6 2-9-8-6-17-3-38 1-11 5-5 8 5 7 15 4 24 2M1854 8653l16-7 1-6-7-6-28-4-19 2-13 10 4 7 15 4 31 0M2000 8613l17-6 1-7-7-6-18-3-30 2-12 9 4 7 15 4 30 0M2135 8577l21-2 12-5 3-11-7-6-18-4-34 1-17 7-3 7 5 7 38 6M2612 8411l-38 4-37-4-6-6 1-9 7-7 13-5M1301 8728l25-2 8-7 4-9-1-7-8-6-16-4-61-1-13 5-12 19 3 7 17 4 54 1M2329 8451l19-1 12-5 11-22-6-6-74-4-17 3-14 13 0 8 6 6 63 8M1092 8778l38-3 40 5 4 7-10 14-13 5M1438 8684l21-3 10-6 1-8-7-7-35-4-20 1-12 6-5 9 5 6 16 4 26 2M2172 8485l29-7 5-10-7-6-43-4-18 2-9 6-3 7 6 7 40 5M1571 8639l26-2 9-7-6-7-18-3-20 2-11 7 4 7 16 3M1728 8597l14-4-1-8-28-1-7 8 22 5M1875 8557l14-4-2-7-28-1-6 8 22 4M2011 8520l24-1 12-8-7-7-18-3-21 2-10 7 5 7 15 3M2506 8363l-38 4-54-4-5-7 6-13 7-8 13-5M1167 8675l41-3 9-6 3-14-7-6-39-6-32 2-12 5-10 16 5 7 42 5M2196 8397l34-1 12-5 9-17-5-7-18-3-64 2-9 6-4 13 7 6 38 6M974 8725l40-4 55 5 3 7-6 12-21 12M1306 8629l36-2 10-10-6-7-17-3-30 0-11 6-4 6 6 7 16 3M1471 8585l11-3 1-7-29-3-7 7 10 5 14 1M1911 8466l11-3 3-5-3-3-32 0-1 9 22 2M2041 8431l32-1 11-5 3-7-6-6-17-4-35 2-10 10 6 7 16 4M1608 8539l8-2-8 2M1755 8500l8-2-8 2M2397 8313l-39 3-68-1 7-5-3-5 15-22 13-4M1056 8623l39-3 9-6 4-13-7-6-38-6-34 1-12 5-9 17 5 7 43 4M2085 8345l32-1 12-5 10-16-5-7-17-4-49-1-17 3-9 6-3 13 7 7 39 5M862 8673l39-4 68 2-7 5 3 5-15 21-13 5M1195 8578l35-2 10-11-6-6-16-4-32 1-11 5-3 7 6 6 17 4M1361 8533l8-2 2-8-29-3-8 8 11 5 16 0M1800 8414l8-2 4-6-2-3-22-2-11 3 0 8 23 2M1930 8379l30-1 11-5 4-6-6-7-16-3-36 2-10 10 6 7 17 3M1496 8488l8-2-8 2M1643 8449l8-3-8 3M2285 8261l-40 4-55-5-3-7 6-12 21-12M977 8571l18-7 4-15-6-7-36-6-46 0-12 5-11 21 6 7 19 3 64-1M2003 8294l17-5 7-8 5-11-3-7-78-6-18 3-8 7-4 8 1 8 8 6 16 4 57 1M1108 8528l17-5 8-10-6-7-15-4-42 0-12 5-5 9 7 8 17 4 31 0M1843 8329l20-6 5-9-5-6-46-6-17 3-10 6-1 8 7 7 47 3M753 8623l38-4 54 4 5 7-6 13-7 8-13 5M1237 8485l21-3 10-6-5-7-15-4-24 2-12 8 7 6 18 4M1397 8441l5-1 2-9-20-2-14 3 2 8 25 1M1543 8402l5-1 3-9-20-3-14 4 1 7 25 2M1677 8366l20-2 11-7-4-7-16-3-26 1-9 8 6 6 18 4M2167 8208l-38 3-40-5-4-7 10-14 13-5M647 8575l38-4 37 4 6 6-1 9-7 7-13 5M982 8480l32-3 11-6 5-12-6-7-36-6-40 0-11 6-6 8-1 9 7 7 45 4M1147 8435l17-7 3-6-5-7-15-4-44 0-12 5-3 9 7 8 16 3 36-1M1587 8317l16-6 5-8-5-7-44-6-18 3-11 6-1 9 8 6 50 3M1716 8282l29-2 12-5 9-15-4-7-16-4-68 0-9 7-2 15 8 6 41 5M1266 8395l30-2 12-9-4-7-15-4-36 0-11 6-1 7 7 6 18 3M1413 8355l29-1 13-10-4-7-15-4-37 1-10 6-1 6 7 6 18 3M730 8517l-63-9-6-7 1-8 14-12 16-3 75 3 7 6-10 24-12 5-22 1M1903 8203l-68-2-16-4-2-8 14-19 13-4 60 0 16 4 9 5 2 8-3 11-8 7-17 2M2046 8152l-40 2-15-4-3-7 17-10M545 8528l31-4 19 3 8 6-5 8-12 5M1012 8390l39-3 11-5 7-15-5-7-15-4-74-4-10 6-6 22 8 6 45 4M1165 8349l29-3 11-5 6-13-5-7-35-6-45 0-10 7-4 8 1 9 8 5 44 5M1312 8309l28-2 11-5 8-13-5-7-36-7-46 1-9 6-4 9 1 8 8 6 44 4M1453 8271l36-2 12-5 10-17-3-7-38-6-57 0-9 7-1 19 8 6 42 5M767 8427l-54-5-14-4-5-7 1-6 5-9 10-5 17-3 72 3 7 6-7 24-11 5-21 1M1646 8192l-67-4-15-4-3-7 13-18 13-5 59 0 17 3 9 6 2 8-2 12-8 7-18 2M625 8458l-42-1-14-4-4-7 11-11 17-3 40 3 9 9-5 9-12 5M1776 8145l-33-1-14-5-4-7 7-7 12-5 49 2 9 6 0 8-9 6-17 3M661 8346l8 6-2 8-11 6-21 1-28-6M818 8304l9 5 1 8-4 9-11 5-38 1-34-7M971 8262l9 6 1 8-4 14-10 6-54-1-34-8M1118 8223l9 6-2 22-5 4 2 5-67-4-35-7M1260 8185l9 5 2 8-3 12-9 7-57-1-35-6M1398 8147l9 6 1 8-2 6-9 7-42 1-35-7M1531 8111l9 6 0 5-8 7-18 3-37-6"/>
<path stroke="#009eb0" d="M1575 8916l-9-6-1-8 10-9 33-2 37 6M1705 8881l-9-6-2-12 3-13-6-6-117-4-10 6-20 23-12 5-44 1-44-5-9-6-1-24-6-7-116-7-10 6-18 24-13 5M1832 8846l-5-6-1-25-8-6-42-4-42 2-20 12-10 21 108 12M2568 8648l-7-6 6-27-3-7-61-2-39 3-17 14-1 9 4 7 97 14M2735 8603l-9-6 1-8 4-6 12-5 26-1 35 7M1932 8803l22-1 9-7 3-9-2-8-9-6-27-4-42 2-12 5-8 13 4 7 14 5 48 3M2093 8760l12-6 2-14-9-6-18-4-45 2-11 6-6 9 4 7 14 5 57 1M2239 8720l13-6 2-14-9-6-18-3-46 2-11 5-5 10 5 7 13 4 56 1M2372 8684l21-1 10-6 4-10-1-8-8-6-57-4-17 3-11 5-5 9 4 10 14 5 46 3M2831 8512l-39 4-25-4-8-6 1-5 5-9 13-4M1521 8832l33-1 7-8 1-18-26-9-58 0-13 5-13 17 2 8 16 4 51 2M2549 8555l27 0 11-6 9-23-7-6-72-3-17 3-10 6-5 8 0 6 5 6 14 5 45 4M1318 8882l40-3 30 6 3 9-7 8-13 4M1659 8787l26-3 10-6 1-9-9-6-18-3-35 1-12 5-6 8 5 7 14 4 24 2M2393 8589l22-2 12-5 4-12-8-6-18-3-38 2-13 7-2 6 4 6 37 7M1794 8742l29-1 9-9-8-6-17-3-19 2-12 6 3 7 15 4M1949 8700l14-1 6-4-1-4-30-3-6 9 17 3M2096 8661l13-1 7-5 0-3-10-4-22 0-5 9 17 4M2234 8624l27-1 11-10-8-6-19-3-19 3-10 6 4 6 14 5M2732 8466l-106 5-13 34 2 8 97 14 4 7-1 10-15 14-17 3-87 3-7 7-13 34 98 14M1401 8775l25-3 10-6 0-9-8-6-33-4-20 2-12 5-7 9 5 6 15 5 25 1M2429 8498l32-7 5-12-8-6-44-3-17 3-9 6-2 6 5 6 38 7M1544 8728l18-5-3-7-26-1-8 7 1 3 18 3M2279 8530l18-5-4-7-30 0-3 9 19 3M1189 8823l113-1-2-3 6-6 2-13-2-8-8-6-39-5-44 1-13 4-18 24-10 6M2634 8422l-105 5-14 15 0 8 6 6 35 7 60 4 9-7 13-26 12-5M1168 8764l16-7 1-14-7-6-16-4-53 0-13 5-11 16 4 7 17 4 62-1M2486 8409l16-5 7-8 3-11-5-6-67-4-16 3-12 10-1 8 7 7 14 4 54 2M1277 8719l28-3 8-7-7-6-15-3-21 1-13 7 4 7 16 4M2305 8441l22-1 13-8-5-7-19-3-23 3-9 7 5 5 16 4M1026 8713l32-3 9-7 2-10-22-10-47 0-13 5-9 13 6 7 42 5M2348 8356l24-1 13-5 8-14-6-7-17-3-56 2-10 7-1 9 7 6 38 6M1177 8664l13-3-2-8-26-2-9 6 2 5 22 2M2204 8387l15-7-3-5-33 1 0 8 21 3M915 8661l30-3 9-6 2-10-7-6-38-6-24 1-13 5-6 8-2 6 6 7 43 4M2237 8304l35-6 9-14-6-6-57-5-17 3-9 7-2 10 8 6 39 5M1067 8612l9-2 0-9-26-2-10 6 3 5 24 2M2093 8335l13-6-2-5-22-2-13 3 2 8 22 2M798 8611l37-3 10-7 3-11-7-7-36-6-35 0-13 5-10 19 5 6 46 4M2121 8254l29-1 13-5 11-16-4-8-47-5-39 4-9 6-1 13 7 6 40 6M943 8564l23-3 9-7-5-5-16-4-22 1-13 8 5 7 19 3M1971 8286l18-1 13-7-4-7-16-4-28 3-8 7 7 6 18 3M853 8515l11-3 9-11-5-7-15-4-42 0-13 5-4 8 7 10 20 3 32-1M1879 8238l17-6 7-9-5-7-48-5-17 3-10 6 0 8 8 6 48 4M994 8468l4-9-28-2-9 6 5 5 28 0M1725 8271l9-7-1-3-18-3-18 5 3 7 25 1M625 8564l105-5 14-15 0-8-6-6-35-7-60-4-9 7-13 26-12 5M2070 8163l-113 1 2 3-6 6-2 13 2 7 8 6 39 6 44-1 13-5 18-23 10-6M717 8470l42-4 10-6 5-14-5-6-14-5-72-4-11 6-9 23 7 6 47 4M892 8423l13-7 2-6-4-7-14-4-45 0-12 5-4 9 8 8 18 4 38-2M1623 8225l14-5 6-8-5-7-14-5-33-1-17 2-10 8-1 8 9 6 18 3 33-1M1747 8192l34-2 13-5 13-18-2-7-57-6-43 1-7 7-1 19 9 6 41 5M527 8520l106-5 13-34-2-8-97-14-4-7 1-10 15-14 17-3 87-3 7-7 13-34-98-14M1014 8382l19-3 10-6-4-6-14-5-27 1-11 9 8 7 19 3M1455 8262l28-7-3-7-25-5-19 2-8 6 7 9 20 2M1148 8337l27 1 6-8-18-5-13 1-7 4 5 7M1294 8298l27 0 7-7-10-5-22 1-6 4 4 7M1941 8104l-40 3-30-6-3-9 7-8 13-4M428 8474l39-4 25 4 8 6-1 5-5 8-13 5M907 8337l28-3 11-6 6-11-5-7-34-7-47 0-10 6-4 8 1 10 8 6 46 4M1060 8296l28-8 6-9-5-8-13-4-58-1-11 6-3 6 1 8 9 6 46 4M1207 8256l28-8 6-8-4-8-14-5-59-1-10 6-3 6 1 8 9 6 46 4M1348 8218l25-2 12-5 8-14-4-7-14-4-51-4-19 2-9 7-3 9 2 8 9 6 44 4M524 8383l9 6-1 8-4 6-12 5-26 1-35-7M691 8338l7 6-6 27 3 7 61 2 39-4 17-13 1-9-4-7-97-14M1427 8139l5 7 1 25 8 5 42 5 42-2 20-12 10-21-108-12M1554 8105l9 6 2 12-3 13 6 6 117 4 10-6 20-23 12-5 47-1 41 5 9 6 1 24 6 7 116 7 10-6 18-24 13-5M1684 8070l9 6 1 8-10 9-33 2-37-6"/>
<path stroke="#00bea0" d="M1553 8922l-9-6-3-24-9-5-54-6-44 1-13 5-20 22-13 5M2877 8564l-9-5 0-9 6-8 13-5M1638 8882l24-2 8-7 0-15-9-6-23-4-44 1-13 5-10 14 2 7 15 5 50 2M2666 8605l19-1 11-5 6-20-8-6-61-3-27 9-4 9 5 8 13 5 46 4M1426 8932l40-3 37 6M1776 8837l18-3 9-6 0-6-9-6-44-2-15 10 3 7 38 6M2513 8638l23-6 2-9-8-6-32-3-17 3-11 8 3 7 14 5 26 1M1912 8792l18-2 6-4-6-7-25 0-8 9 15 4M2354 8673l14-1 10-6-8-6-27 0-6 9 17 4M2057 8745l9 1-2-3-7 2M2203 8705l9 2-1-4-8 2M2848 8520l-100 7-14 15-3 13 4 7 91 16M1381 8870l21-2 10-14-2-8-8-6-17-4-50 1-13 4-11 16 2 7 15 4 53 2M2704 8513l25-5 9-20-7-7-65-2-26 9-4 9 6 8 13 5 49 3M1500 8822l30-2 8-9-8-5-13-3-21 1-14 6 3 8 15 4M2528 8544l25 0 11-6 2-4-7-6-20-3-21 3-8 7 3 5 15 4M1266 8812l10-2 8-7-8-11-17-3-26 1-17 11 3 7 15 4 32 0M2586 8455l17-5 4-9-7-6-36-3-17 3-9 9 5 6 15 5 28 0M1138 8756l18-5-3-7-24-2-11 6 2 5 18 3M2461 8399l18-5-4-7-33 1 0 8 19 3M1021 8698l10-1-5-2-5 3M2340 8342l10-3-10 3M909 8647l10-3-10 3M2228 8291l10-3-10 3M811 8600l6-2 0-8-26-3-12 5 5 7 27 1M2128 8244l13-6-2-5-18-3-18 5 3 7 22 2M678 8554l34-3 9-9-5-7-15-4-32 0-13 5-4 9 7 6 19 3M2000 8197l26-1 17-11-3-7-15-4-42 2-8 11 8 6 17 4M576 8508l33-4 10-6 4-11-6-7-34-7-41 0-12 5-7 12-2 8 7 6 48 4M1899 8151l38-7 11-15-2-7-15-4-57-2-17 2-8 7 0 15 8 6 42 5M720 8461l21-3 8-7-3-5-15-4-25 0-11 5-2 5 7 6 20 3M1749 8183l27-6-2-9-28-5-17 3-8 7 8 7 20 3M613 8416l30-3 10-6 5-11-6-7-33-7-45-1-11 6-5 8-1 12 8 6 48 3M1641 8139l37-7 10-14-2-8-15-4-56-3-18 2-8 8 0 15 9 6 43 5M411 8466l100-7 9-7 8-21-4-7-91-16M749 8371l29-2 11-8-3-8-14-4-37 0-12 5-2 9 8 6 20 2M1483 8173l26-2 12-5 1-10-15-6-42 1-9 7 0 6 9 6 18 3M889 8326l27-1 6-8-31-3-10 5 8 7M1048 8282l8-2-9-1 1 3M1195 8243l7-2-9-2 2 4M1329 8207l25 0 8-7-13-6-20 2-6 4 6 7M1833 8054l-41 3-36-6M382 8421l9 6 0 9-6 8-13 4M1706 8064l9 6 3 24 9 5 42 5 56 0 13-5 20-22 13-5"/>
<path stroke="#00de90" d="M1507 8918l12-7 0-13-27-9-41 1-13 5-9 11 3 8 14 4 61 0M2824 8562l13-5 6-8 1-8-9-6-53-3-16 3-10 6-3 8 5 7 13 4 53 2M1618 8872l20-3 4-4-5-7-24 0-10 6 1 3 14 5M2648 8594l12-1 12-6-8-6-29 1-4 8 17 4M1360 8860l23-6-5-7-24-2-11 6 2 5 15 4M2683 8502l23-6-7-6-31 0-2 9 17 3M560 8496l31-1 2-8-28-3-11 5 6 7M1881 8139l24 2 11-6-2-5-17-4-17 3-4 3 5 7M473 8454l20-3 10-6 3-8-5-7-13-4-54-3-12 5-7 9 0 8 9 6 49 3M1795 8097l26-6 9-11-3-8-14-4-48-2-17 3-8 6 0 12 9 6 46 4M595 8405l29-1 4-8-29-3-12 5 8 7M1622 8127l24 1 10-6-1-3-16-5-18 3-4 4 5 6"/>
<path stroke="#00fd80" d="M1469 8904l13 0-3-3-10 3M2788 8547l9 2 1-4-10 2M461 8441l10-3-9-1-1 4M1780 8085l10-3-13 0 3 3"/>
</g>
<path d="M33.9 843.3L146 894.7L292 855.3" fill="none" stroke="#888" stroke-width="0.9"/>
<path d="M33.9 843.3L33.9 731.1" fill="none" stroke="#888" stroke-width="0.9"/>
<path d="M146 894.7l-2.9 0.8M89.9 869l-2.9 0.8M33.9 843.3l-2.9 0.8M146 894.7l2.7 1.3M219 875l2.7 1.3M292 855.3l2.7 1.3M33.9 843.3l-2.9 0.8M33.9 820.9l-2.9 0.8M33.9 798.4l-2.9 0.8M33.9 776l-2.9 0.8M33.9 753.6l-2.9 0.8M33.9 731.1l-2.9 0.8" fill="none" stroke="#888" stroke-width="0.9"/>
<g transform="translate(27,685) scale(0.25)" fill-rule="evenodd">
<path fill="#0005fc" d="M592 659l-6 0-3 9 1 6 3-3 2 2 6-10zM490 656l-7 0-3 9 2 6 8-9 2 1 0 3 1-5z"/>
<path fill="#0010f7" d="M529 668l-3 1-4 12 2 2 2-3 4 5 7-11-4-5zM632 662l-3 1-4 13 2 2 2-3 4 5 7-11zM439 655l-3-1-4 3-5-3-3 1-4 10 1 5 3-3 3 4 10-14 2 4zM484 654l0 7 3-3 6 7 0-9-6-3zM588 651l-3 9 2 6 2-5 4 5 2-3 2 4 1-8-2-6-5-3z"/>
<path fill="#001bf2" d="M525 677l-3 1-7 12 2 4 9-15zM574 672l-3 1-5 12 2-3 7 10 7-12-5-7zM481 669l-5 4-3-4-6 0-4 12 3-3 6 9 10-16zM535 648l-5 4-4 15 2 8 0-3 2-1 5 6 7-11 3 3 0-5-5-12zM695 645l-6 0-3 11 1 5 3-3 3 1 5-10zM431 638l-4 3-4 15 2 6 2-5 4 7 5-7 3 3 1-2-5-17zM386 638l-3-1-4 2-2 5 2 5 2-4 7 0zM755 618l-6 0-3 9 1 7 7-9 2 4 2-7z"/>
<path fill="#0025ec" d="M515 674l-3 1-3 7 8 12 6-11-5-8zM412 660l-3 1-3 6 7 13 11-16-6 2-3-5zM677 659l-3 1-5 13 2-3 7 8 9-16-5 0zM593 650l-6 0-3 5-5-3-4 1-3 17-3 2-4 8 0 5 3-3 1 2 5-9 4 6 3 1 5-10 4-18 4 1zM488 651l-3-1-4 2-2-3-7 0-4 18-6 10 1 4 7-10 4 6 3 1 6-9 4-13 2 3 1-2zM367 645l-5 4-2 8 1 1 2-4 6 10 10-15-6 2-3-5zM641 643l-4-1-4 3-4 17 1 6-3 1-3 5-2-3-6 0-4 8 8 11 10-18 2-7 6 7 6-10 2-7 3 4 0-6zM747 635l-3 1-4 7-4-2-4 1-4 8 1 6 3-3 5 5 10-19zM695 629l-4 3-3 14 2 6 2-5 4 5 3-5 4 1-4-16zM336 625l-3-1-5 3-2-3-6 0-3 9 1 4 3-3 3 5 10-13 2 5z"/>
<path fill="#0030e7" d="M581 651l-6 0-6 23-3 3-6-5-3 1-3 6 7 13 12-19 1 2 3-19 5 0zM486 647l-3-1-4 3-4-3-3 1-5 20-3 5-4-5-6 0-3 9 7 11 12-16 5-20 6 7 4-5 2 2-1 3 1-2 2 3 1-1zM538 646l-6 0-1 6-5 4-5-3-4 1-3 13-5 3-5 9 1 4 3-3 3 5 4-8 5 8 2 0 6-10 5-22 2-2 3 3 1-2zM428 641l-5 3-5-3-4 1-3 11-4 2-5 10 1 4 2-3 3 4 4-7 5 9 2 0 6-9 5-21zM642 638l-6 0-2 7-5 6-5-3-4 1-2 13-5 1-6 11 0 4 3-2 4 6 5-9 4 7 2 0 6-11 5-23 2-1 7 8 1-2zM693 633l-3 1-3 5-5-2-4 2-3 18-3 1-4 10 1 5 4-3 4-8 6 7 7-13 4-19zM372 626l-4 3-3 15-5 10 2 2 5-8 6 10 6-8 2-8 2-2 2 3-1-11-5 0-3-5zM798 613l-3-1-4 3-2 8 1 7 2-4 3 3 6-11zM755 613l-6 0-4 7-4-2-4 2-4 19-3 5 1 5 4-5 6 5 6-11 5-18 3 4 2-2zM329 605l-4 1-5 17 1 7 2-4 5 7 6-7 1 5 2-3-2-17-2-4zM284 595l-6 0-3 7 1 6 9-10zM812 590l-6 0 0 6 2 0 1-3 1 3 2 0z"/>
<path fill="#003ae2" d="M621 643l-4 3-4 22 1 1 2-4 3 8 3-21 5 0-2-7zM419 638l-3-1-4 2-5 16 0 7 3-5 2 6 4-18 2-1 2 4 1-6zM684 637l-6 0-7 23-3 2-5-3-3 1-3 8 8 11 5-7 4-11 2-1 1 2 3-20 2-2 2 3 1-1zM641 636l-6 0-5 20 4-6 1 3-1-4 2 0 3-9 2 6zM584 636l-6 0-2 12-6 5-4-3-4 1-2 9-7 1-6 9 0 4 3-1 6 10 4-8 5 7 2 0 6-10 5-19 6 8 6-9 3 3 0-5zM480 636l-6 0-1 8-5 6-7-4-3 1-3 9-5 0-6 13 4-1 4 10 5-9 5 9 2 0 5-7 6-22 6 9 2-9 3 5 0-7zM430 635l-3 1-3 13 4-5 1 1-2 11 3-14 2 0 1 7 1-11zM534 633l-6 0-4 19-5-3-4 1-4 16-10 16 2 3 10-14 2 6 5-21 6 7 2-4 3-1-1 9 4-18 2 0 1 7 1-11zM697 631l-6 0-3 14 4-7 1 4-1-5 2 0 1-5 2 7 1-1zM780 629l-3 1-4 10 1-2 8 9 6-13zM309 628l-3 1-3 7 7 12 7-7 2-5-3 0-4-7zM383 628l-6 0-5-4-3 1-6 23-3 2-3-5-3-1-5 3-1 5 7 13 12-17 5-19 6 8 2-3 2 1 0 6 1-1 2 4 1-6zM743 618l-3-1-4 3-7 28-2 2-4-2-4 1-4 8 8 11 12-25 4-20 2-2 3 2zM755 615l-6 0-3 11 5-9 4 7zM264 604l-3 1-4 12 1 1 2-3 5 8 7-8-5-10zM811 587l-3-1-3 1-2 4-6 0-5 20 1 8 2-4 5 5 5-11 3-16 2 0 1 7zM287 583l-3-1-4 3-3 10 2 7 2-5 2 3 3-3 1 5 2-3zM858 577l-3-1-4 2-2 7 1 8 2-4 2 2 5-11zM240 557l-6 0 0 6 3-3 3 3zM576 505l-3 1-3 9 1 5 3 1 3-1 4-7-2-7z"/>
<path fill="#0045dc" d="M502 663l-3 1-4 9 8 12 7-12-5-9zM616 661l-5 4-3-5-6 0-4 9 8 12 6-8 5-10zM398 650l-3 1-3 7 8 14 6-7 4-9-5 1-4-6zM562 641l-4 3-5 16 1 7 2-4 2 2 2 9 4-20 2-1 2 4 1-3-3-11zM459 638l-3 1-6 17 1 6 2-4 2 2 2 9 3-19 2-1 2 3 1-2-2-9zM581 633l-3 1-6 19 0 4 3-4 1 1-1 10 6-26 3 5 1-4-1-5zM477 633l-4 3-4 18 4-5 1 1-1 6 4-18 3 5 1-4-1-5zM525 626l-5 4-3 26 0-3 2-1 7 11 4-27 3 1 3 15 2-8-4-3 0-5-5-8zM628 620l-5 4-3 27 1-5 8 11 7-11 1-7 2 0 1 5 1-11-3-9-4 0zM422 614l-5 4-3 26 2-4 6 11 6-7 2-6 2 7 1-3-1-13-5-11zM690 609l-3-1-4 3-3 18-9 15-3 16-2 0-4-15-3-1-3 1-1 5-6 9 5 3 5 9 4-9 6 7 7-12 5-18 6 7 8-14 2 5 1-9-3-12zM379 609l-6 0-5 18-4 2-2-4-7 0-4 18-5-3-4 1-1 5 3-2 5 10 5-7 5 10 7-9 6-21 6 10 1-6 2 0 1 7 1-12zM789 606l-6 0-2 3-2 13-6 5-2 8 1 7 2-4 2 3 4-9 6 5 6-11 3-13zM333 602l-7 0 0 9-6 4-3-4-7 0-2 11-7 7-2 8 3-3 2 4 5-7 5 10 2 0 5-8 6-24 2-1 3 4 2-2zM850 593l-3 1-4 8-4-2-3 1-5 10 1 5 2-3 6 5 8-16zM749 591l-3-1-4 3-5 27-5 6-5-2-3 1-3 12-6 1-5 14 1 6 2-4 4 7 5-10 6 6 6-13 6-24 6 6 6-11 2 5 1-9zM269 587l-4 3-4 20 1 2 2-5 6 11 7-9 5-19-2-1-5 3zM224 576l-3-1-4 2-2 5 1 7 2-4 3 4 6-6zM617 506l-3 1-1 7 5 4 3-1 1-4-2-6zM513 503l-4 3-1 9 5 9 3 1 3-1 1-5-3-13zM572 479l-3 1-2 5-2 17 4 17 4 3 3-1 2-7 3-1 4-6 2-10-2-3-7-1-2-11zM635 472l-3 1-4 13 0 16-3 5 4 3 6-5 8-15-5-17zM531 470l-3 1-4 15 1 5-2 3 1 7-2 3 2 8 3 1 4-3-1-5 10-19-6-15zM489 461l-4 3 1 4 3 1 4-3-1-4z"/>
<path fill="#0050d7" d="M638 633l-1 9 1-4 2 6 2-8zM351 633l-4 1-5 8 1 3 2-2 2 1 2 10 6-11 0-7zM570 621l-5 4-2 15 1 9 6 11 7-11 4-13 1 3 1-2-1-12-7 0zM528 622l-6 0-5 20-4 4-6-4-4 1-2 5-4-3-3 1-6 9 9 21 5-10 6 10 4-5 5-18 2-1 1 2 3-23 2-2 8 10 1-6zM630 619l-6 0-4 17-8 10-3 15-2-2-4-17-6 0-6 11 3 3 1 7 5 9 5-10 6 9 6-8 4-17 2 3 3-24 2-2 3 2zM466 618l-4 3-3 20 8 16 7-10 2-10 2 0 1 4 1-10-3-7-4 0-3-5zM723 616l-4 3-4 17 1 9 2-5 4 10 3-21 2-2 2 3 1-1-3-11zM684 615l-4 3-5 23-6-5-5 3-3 15 3 9 5 6 5-24 5-8 1 4 5-22zM424 614l-6 0-5 18-4 2-2-4-7 0-5 20-3-10-3-1-4 2 9 20 4-8 6 10 6-6 4-15 2-2 1 2 3-23 2-2 2 3 1-1zM378 611l-6 0-7 24 5-6 0 5 5-22 2 0 1 8zM265 600l-4 3-1 8-4-7-3-1-7 5 6 16 9-10zM798 601l-5 0-4 6-3-7-6 0-6 23 1 7-1 1-5-4-3 1-5 9 0 3 7 8 6-10 2-10 2-2 2 5 4-21 2-2 6 6-5 22 6-13zM744 597l-4 3-7 32 4-7 1 3-1-4 2 0zM331 589l-3-1-5 3-6 20-4-3-4 1-5 21 3-3 2 4 4-18 6 8 5-5 1 3 4-15 2 1 0 6 2-6zM283 580l-3 1-4 15 4-4 1 1-2 9 4-16 2 0 1 7 1-10zM804 570l-4 3-3 15 0 7 2 3 1-5 4 4 4-8 2 5 2-4-4-17zM238 557l-3-1-5 3-4-2-4 2-5 16 2 7 2-4 4 7 7-9 5-17 2 3zM868 552l-3-1-9 4-6 25-6-3-4 2-2 13-5 6-3 11 1 7 8-13 5 5 6-12 3-15 2-2 3 3 8-20 3 4 1-8zM461 508l-5 4 1 6 3 1 6-5-1-4zM554 500l-4 3 1 6 3 1 4-3-1-6zM622 494l-3 1-6 13 3 11 4 2 13-11-2-9zM568 494l-3 1-3 6 1 9 4 10 6 3 3-1 1-4-1-4-1 3-3 1zM519 492l-4 2-5 10 2 16 2 4 3 1 4-2 3-6 4 0 2-5-1-10-4-6zM513 506l3 9-1 5-4-6zM410 482l-3 1-2 4-2 12 6 12 3 1 3-1 3-7-4-19zM675 473l-3 1-2 5-2 16 4 13 4 2 4-2 6-12 3-2 1-5-2-3-7-1-2-9zM469 467l-3 1-5 16 1 8 2 4 3 1 4-3 3-12-1-12zM370 464l-3 1-5 19 1 4 5 3 3-1 6-9-2-12-2-4zM495 451l-3-1-4 3-7 0-2 6 4 7 10 0 3-11zM428 450l-3 1-4 12 1 9-2 3 1 7-2 3 1 8 4 3 3-1 6-8 5-19-7-17zM620 441l-4 3 0 7 3 9 3 1 3-1 1-4-2-12zM590 437l-4 3-4 16 1 20-2 5 2 10 4 3 3-1 3-5 9-37-1-4-4 0-4-9zM514 438l-2 7 4 12 4 2-1 10 5 19 4 2-1-3 4-14 6 12-2 2 4 0 7-17-1-6-5-5-7-1-3-14-3-1-4 3-3-8zM385 433l-4 3 1 5 3 1 4-3-1-5zM650 431l-4 3 1 5 3 1 4-3-1-5zM547 430l-5 4 1 4 3 1 5-3-1-5z"/>
<path fill="#005ad2" d="M1054 450l-5-17-8-44-4-9-6-4-10-38-5-12-5-6-2 0-9 22-8 42-4 5-3-2-12-41-7-10-7 11-6 22-8 18-4 3-3-2-10-35-5-10-3-2-10 21-5 29-3 5-5 0-15-47-4-8-3-2-9 20-5 24-5 4-6-5-6-24-12-30-2-1-9 19-4 19-4 2-6-3-3-5-10-38-7-14-2-1-9 19-2 10-4 4-10-7-6-26-12-28-2-1-9 17-1 7-4 3-3-2-1-4-7-5-5-21-12-32-3-1-3 3-6 16-3 2-2-1-4-9-7-4-8-31-8-22-3-2-3 1-7 14-2 1-4-3-3-10-7-5-12-43-4-10-3-2-3 2-6 13-10 42-8 14-7 37-3 2-3-2-4-19-11-32-3-4-3 0-8 16-9 39-8 14-6 31-3 2-4-4-14-50-4-5-3 0-9 21-7 33-8 13-6 29-3 2-4-5-14-54-4-5-4 0-7 14-9 40-9 16-4 23-3 2-4-5-12-51-4-10-5-5-7 11-10 43-9 15-4 19-3 2-4-5-15-61-7-8-7 12-11 44-7 12-4 16-3 1-3-2-12-53-6-17-6-6-7 11-10 43-8 13-3 13-3 2-2-1-18-74-6-9-8 10-11 41-3 4-6 19-4 2-3-2-17-75-6-11-9 10-7 29-6 7-7 26-3 2-3-2-14-69-10-23-8 9-11 44-7 12-5 14-7 28 8-29 3-2 2 1 3 6 9 68 8 39 9-9 7-27 6-11 3-2 3 2 5 25 5 43 7 31 8-8 4-17 9-10 2-8 4-3 3 2 7 52 7 29 0 9 10-11-2-1 1-4 3 0 0-2 12-11 3-12 2-3 1 6 3 0 8 50-2 6 6 16 10-12-1-2 6-24 4-3 3 8 6-7-1 10 3-10 2 8 1-4 4 17-2 6 5 26 6-6 4 7-1 4 7-7 5-19 2 0 4 7 6-6 3-9 2 8 1-4 2 4 5 30-2 6 6 13 9-11 2-14 3 0 1-4 7 10 4-22 3-6-1-2 3-2 3 2 0 3-2 0-2 15 2-7 2 8 0-2 2 0 5 23-2 4 5 12 9-11 2 1 2 9 3-18 3 0 4 8 6-7 4-15 2-3 1 2 1-3 8 35 3-3 5 19 6-15 0-14 3-2 3 1 5 7-1 2 5-6-1 10 7-28 10 13 6 22-1 4 9 15 10-16 1-9 1 3 2-7 2 6 5-26 3 3 1-2 2 3 2-1 4 3 1 4-3 0-1 12 2-7 2 5 3 0 7 14 4-4 1 2 3-5 5 18 4-21 6 8 4-6 3-1-3 13 9-35 10 12 6 22-1 4 8 13 10-17 0-11 2 0 0 3 2-6 3 7 3-25 2-2 2 3 6-2 4 2-1 2-1-1-1 13 2-5 2 5 1-2 8 12 8-9 3 2 1 16 7 11 3-21 7-11 0 7 6-25 6 8 2-3 2 5 1-2 7 19-1 4 5 7 3 1 7-13 4 14 4-21 2-1 5 6 6-12 2 0 0-9 2 0-1-5 2 0 2-8 5 8 3 1 0 11 4 14 11 14 6-11-1-8 5-21 4-1 2 8 6 7 6-10 8-30 5 6 2 8-1 8 7 22 4 4 6-11 5 7 7-27-2-6 3-3 0 3 1-2 2 5 6 6 4-8 0 10 9-42 1 3 1-4 7 24-1 7 3 10 11 15 7-15 1-11 1 2 2-6 2 5 3-21 2-2 6 5-4 19 4-8 6-24-2-4 1-6 5-6 3 2 1-3 2 0 0 7 3 5 1-2 7 22-1 3 9 8 2-4-2-2 5-11 2 0 2-4 4 3 6-12-1-4 4-7 2-11 3-1 7-17-2-2 4-9 2-1 3 2 8 29 8 10 5-10 3-16 3-2 3 1 9-21 4-22 8-27 2-1 3 2 5 25 5 14 9 10 5-15 3-18 5-3 4-8 12-70 3-1 3 2 11 38zM461 509l4 5-5 4-3-2 0-4zM567 505l3 7-1 4-3-7zM622 495l7 9 1 7-2 0-8 9-4-3 0-8 4-8-1-4zM519 493l8 12 1 10-3 2-2-1-2 5-5 3-6-7 2-2-1-5 5-10 0-5zM410 485l5 20-2 2 2 2-3 2-6-8 2-2-2-3 1-3-2-1 0-3 2-2 1 2zM572 482l4 23 6-9 2 2-1 4 3-1-10 19-3 2-4-2 1-9-3-13zM675 476l6 24-1 6-4 3-7-19 1-7 2-3 1 3zM635 475l4 8 0 7 3 0-5 9-1-3-4 7-1-16zM469 470l2 11 1-1 1 2-2 8-2 0 0-4-2 8-4-14 1-4 3 0zM370 467l4 10 0 7-2 2-1-2-2 2 2 2-3 2-4-13 3-7 1 3zM428 453l7 13-1 3 2 0-3 16-5 6-1-4 0 2-2 0 1-6-5-7 2-2-1-4 2 0 0-6zM527 446l4 24 6-9 6 6-1 3 2 2-9 22-3 0-2 5-7-30-3-4 2-12 2-2 1 2zM620 442l3 2 1 14-2 2-3-2-2-7 0-7zM590 440l4 12 3-2 3 6-4 17-3 1-4 14-2-3-1-12 2 0-3-16zM517 438l3 2 2 15-3 2-3-2-3-10 1-5z"/>
<path fill="#0065cd" d="M1054 450l-5-17-8-44-4-9-6-4-10-38-5-12-5-6-2 0-9 22-8 42-4 5-3-2-12-41-7-10-7 11-6 22-8 18-4 3-3-2-10-35-5-10-3-2-10 21-5 29-3 5-5 0-15-47-4-8-3-2-9 20-5 24-5 4-6-5-6-24-12-30-2-1-9 19-4 19-4 2-6-3-3-5-10-38-7-14-2-1-9 19-2 10-4 4-10-7-6-26-12-28-2-1-9 17-1 7-4 3-3-2-1-4-7-5-5-21-12-32-3-1-3 3-6 16-3 2-2-1-4-9-7-4-8-31-8-22-3-2-3 1-7 14-2 1-4-3-3-10-7-5-12-43-4-10-3-2-3 2-6 13-10 42-8 14-7 37-3 2-3-2-4-19-11-32-3-4-3 0-8 16-9 39-8 14-6 31-3 2-4-4-14-50-4-5-3 0-9 21-7 33-8 13-6 29-3 2-4-5-14-54-4-5-4 0-7 14-9 40-9 16-4 23-3 2-4-5-12-51-4-10-5-5-7 11-10 43-9 15-4 19-3 2-4-5-15-61-7-8-7 12-11 44-7 12-4 16-3 1-3-2-12-53-6-17-6-6-7 11-10 43-8 13-3 13-3 2-2-1-18-74-6-9-8 10-11 41-3 4-6 19-4 2-3-2-17-75-6-11-9 10-7 29-6 7-7 26-3 2-3-2-14-69-10-23-8 9-11 44-7 12-5 14-7 28 8-29 3-2 2 1 3 6 9 68 8 39 9-9 7-27 6-11 3-2 3 2 5 25 5 43 7 31 8-8 4-17 9-10 2-8 4-3 3 2 6 46 5 23-2 5 5 15 11-12 5-16-1-7 2-8 3-2 4 2 4-4 4 4-2 6 3 0 4 25-2 6 5 28 6-6 3-19 3-2 5 6-8 28 7-8 6-23 2-2 3 6 4-21 2-2 1 6 3 0-2 6 1 5 3 2 3 22 1-1 1 2 3-3 4 22 6-17 2 5 1-2 2 2-1 3 4-4 1 1-1 4 8-29 4 6 2-2 1 3 3 1 4 22-2 6 5 26 6-7 6-18 2 3 0 6-5 19 6-5 4-15 3-4 3-19 2-2 5 9 4-5 1 5 3 1 1 12-2 2 6 26 6-6 3 5-5 11 11-14 1-10 1 3 2-5 2 4 5-25 3 5 1-3 3 5 4-5 1 1-3 20 2-9 2-3 1 6 3 0 6 24 4-3 1 2 3-4 4 17 4-20 3 0 4 8 6-7 2-7 1 2 0-9 2 0 1-7 2-1 1 4 3 0 3 11-2 2 8 26 3 4 4-8 6 10 7-9 6-22-2-2 1-6 3 0 1-5 7 12 2-3 2 5 1-2 2 2 1 7 9 17 4-4 7-18 3-2 2 2 0 8 7 12 4-26 6-10-2 22 3-13 2-2 2 4 1-2 5 7-1 3 5 20 5 9 5-10 5 9 6-7 7-25-2-2 2-7 1 2 2-5 7 11 3-4 2 1 0 3 3 0 1 7 8 13 4-4 1 2 3-5 5 18 3-21 2-1 5 7 9-14-1-3 7-22 2 5 3 0 4 16-2 4 3 11 11 17-4-8 5-7 5 6 6-23 2-2 2 6-2-6 3-3 1-14 4-3 7 5 4-6 0 18-1-5 2 0 3-14 2 1 0 4 3 0 0 14 6 21 5 6-5-19 3-3-1-4 1-1 1 2 3-4 5 21 4 6 7-29 3 1 1 5 4-26 2-2 2 3 3-2 1 3 3-7 2 0-3 21 6-25 2 8 1-3 2 3 4 16 4 0 2-3 1 2 3-4 4 18 6-22 3 3 2-3 1 2 2-6 2 5 5-29 3 3 5-7 1 3 1-2 1 1-1 17-1-5 2 0-1-4 2-1 2-10 2 7 3 0 2 8-1 8 5 17 6 8-6-19 4-12 4-3 3 2 2 20 4 6 7-27-1-10 2 0 0 3 2-4 7 7 5-10 1 2-1-3 2-1 6-30 1 3 1-4 3 10-3 5 1-2 1 4 3 0 1 6-2 2 5 19 6 8 1-2 5 6 7-14-2-5 2-11 3 0 1-4 7 7 6-12 5-24 2 0 7-16 2 7 1-2 2 2 6 22 8 10 5-10 3-16 3-2 3 1 9-21 4-22 8-27 2-1 3 2 5 25 5 14 9 10 5-15 3-18 5-3 4-8 12-70 3-1 3 2 11 38zM751 534l4 5 0 4-3 2-3-2-1-7zM558 491l2 0 5 7 5 17-3 1 0 4-3 2-11-14 2-2-1 1-1-3zM451 490l2 5-1 7-3-3 0-6zM726 482l2 4 0 8-4 4-5-6zM416 473l8 13 1 12-5 3-8 10-5-6 1-4-2-5 2-8 5-8 0-5zM681 462l7 7 3 8-1 3 2 2-3 10-3 2-6 12-4 3-3-2 1-3-3-16 3-12 4-7 0-5zM738 459l5 15-3 5-3 0-1 2-2-3 0-6zM474 458l6 7-6 11-3 14-2 0 0-3-1 6-2 1-2-9 4-15 4-7-1-3zM379 456l3 8-4 14-6 8-1-2-3 4-2-4 2-14 5-8 0-4zM630 449l5 24 6-11 5 5 0 7-2 8-3 1-1 11-8 16-4 1-8 9-12-12 2-2-3-11 5-16 5 28 5-10 6 6-3-24 2 0 2 7-4-20zM644 447l4 10-2 8-3-13zM380 447l3 8-1 3-2-1-1-5zM517 440l2 5-1 7-3-8zM648 437l3 8-1 3 2 0 0 3-4 5-3-11 1-5 2 7zM533 435l5 27 6 5-2 3 2 2-11 25-5 18-3 2-2-1-2 5-5 3-6-7 1-4-4-3-3-20 5-15 5 29 5-9 6 7-3-19 1-5 2 5-3-21 4-15zM693 433l5 11 2-3 1 1-1 5 2 2-4 18-2 2-1-2-3 9-2-3 1-8-3-15zM543 431l2 3 3 0-1 2 2 2-4 24-2 3-3-18 2 0 2 9-2-11zM487 429l4 12 4-2 0 5 2 1-3 14-3 1-2 9-6-5 2-2-3-11 0-6zM424 423l3 2 3 19 4-4 5 8-2 10 2 2-4 16-7 11-8-38-3-4 3-17zM753 416l3 2-3 4-3-2zM575 406l3 2 2 16 2-11 3-2 3 2 3 18 3 0 1-3 2 0 3 16-8 38-2 1 1 7-4 6-2 9-9 14-1-3-3 4-1-3-2 0 1-6-3-17-6-18 1-3-3 1-5-8 0-6 3-9 2 8 0-3 2 0 1 7 2-7 1 3 1-7 2 0 5 28 5-9 6 5-4-21 1-4 7 25-7-33-4-4 1-3-2-1-5-17 0-7zM535 393l3 2 1 4-3 4-4-5 0-3zM606 392l-1 9-3-7z"/>
<path fill="#0070c7" d="M1054 450l-5-17-8-44-4-9-6-4-10-38-5-12-5-6-2 0-9 22-8 42-4 5-3-2-12-41-7-10-7 11-6 22-8 18-4 3-3-2-10-35-5-10-3-2-10 21-5 29-3 5-5 0-15-47-4-8-3-2-9 20-5 24-5 4-6-5-6-24-12-30-2-1-9 19-4 19-4 2-6-3-3-5-10-38-7-14-2-1-9 19-2 10-4 4-10-7-6-26-12-28-2-1-9 17-1 7-4 3-3-2-1-4-7-5-5-21-12-32-3-1-3 3-6 16-3 2-2-1-4-9-7-4-8-31-8-22-3-2-3 1-7 14-2 1-4-3-3-10-7-5-12-43-4-10-3-2-3 2-6 13-10 42-8 14-7 37-3 2-3-2-4-19-11-32-3-4-3 0-8 16-9 39-8 14-6 31-3 2-4-4-14-50-4-5-3 0-9 21-7 33-8 13-6 29-3 2-4-5-14-54-4-5-4 0-7 14-9 40-9 16-4 23-3 2-4-5-12-51-4-10-5-5-8 14-9 40-9 15-3 15-3 1-1 3-4-3-15-61-7-8-7 12-11 44-7 12-3 14-6 2-13-54-6-17-6-6-7 11-10 43-8 13-3 13-3 2-3-2-17-73-7-9-7 10-10 38-9 24-5 4-3-2-17-75-6-11-9 10-7 29-6 7-7 26-3 2-3-2-14-69-10-23-8 9-11 44-7 12-5 14-7 28 8-29 3-2 2 1 3 6 9 68 8 39 9-9 7-27 6-11 3-2 3 2 13 79-2 6 5 17 9-8 3-16 12-13 2-8 3-1 0 5 3 0 5 33-2 8 6 29 5-6 3-19 3-2 3 2 2 4-1 9 3-2 1 2-1-2 2-1 4-15 3 4 5-6 5 8 4 30 1-1 1 2 3-3 4 23 6-17 3 5-1 8 6-6 9-31 8 12-2 6 6 33 5-5 3-11 0-10 3-2 2 1 3 9-1 10 4 13-1 4 6-6 1-6 2 0-1-4 2 0-1-4 2 0 3-12-2-4 2-6 3-2 4 3 2 12-2 6 6 31 5-6 3-19 3-2 2 1 3 9-1 9 3 14 5-6 1 1-3 15 9-33-1-9 3-12 3-2 4 5 6 40 2 2 3-3 5 20 6-17 1 1-4 26 7-8 6-21-2-2 2-8 1 2 2-6 6 13 6-7 2 4 2 0 5 24-2 4 5 11 7-7 7-18 3 10 3-23 2-2 7 6 4-4 1 1-3 19 4-18 2 0 1 7 0-3 2 0 6 19 5-3 2 3 4 18 4-20 2-1 2 3 1-2 3 6 4-5-2 17 8-31 1 2 2-13 2-1 2 6 0-2 2 0 7 30-1 4 9 16 6-7 8-19 3 10 5-26 6 7 5-7 2 5 1-2 10 17 2-3 1 3 2-4 2 1 5 21 4-22 8 5 4-5 1 1-3 13 7-27 1 2 4-17 2 1 1 5 0-2 2 0 6 27-2 3 11 16 7-11-1-8 3-13 3-2 2 1 2 6 2-17 3-2 8 5 4-5 1 1-4 23 6-25 2 0 1 5 1-2 2 2 0 12 5 19 5 9-5-20 1-1 1 2 6-8 4 18 6-21 5 7 2-3 3 10 3-26 2-2 5 6 7-11 2-8 2 8-2 0 3 2 3 17 7 8 6-10 3-22 3-2 3 2 0 11 6 16 7-34 2 0 1 5 6 7 8-18 6 25 5 9 1-2 2 2 5-9 3-11 0-12 4-4 4 5-2 5 2 12 5 6 5-30 3-7 7 9 4-8 2 0-2 15 5-19 8 26 3 3 1-2 1 1 6-11 5 18 6-23 3 4 2-8 1 2 2-5 1 2 4-27 2-2 3 2 4-10 3-2 6 2 6 25 4 0 5-9 2-1 3 2 1 20 5 6 5-22 1 2 3-21 2-2 3 2 2-3 1 3 4-8 0 9 7-35 3 3 0-4 3 4 10 35-1 4 9 8 7-16-1-9 3 0 1-4 4 2 9-21-2-2 5-23 6-9-1-9 3-9 2-1 3 2 5 25 5 14 9 10 5-15 3-18 5-3 4-8 12-70 3-1 3 2 11 38zM702 507l2 5-2 9 1-5 3-1-3 10-4-3 0-7zM398 485l8 13-2 4-4-9 0 5-5-9zM726 482l4 3 0 6-6 7-3-2 2-2-2-4zM358 482l3 4-2 4 2 2-5 3-3-2 2-2-1-4zM653 474l2 8 0-3 2 0 1 10 5-5 8 11 1 6-2 3 2 2-4 3-10-12-7 9-5-5 2-2-1-5zM715 465l5 23-1 1-3-3-3 5-2-4-1-14 2-4 1 4zM729 462l6 17-2 8-5-21zM347 459l4 22-1 1-2-3-3 5-3-2-2-9 2-8 3 0zM778 452l5 18-1 3 2 1-4 4-4-3 1-3-5-7 1-6 2-3 1 3zM660 447l4 14-1 5-6-10zM307 446l5 25-2 3 2 2-3 2-5-4 2-2-3-10 1-7-2-2 1-2 2 1zM365 440l5 25 6-7 5 8-3 12-13 16-3-2 2-2-2-3-2-16 1-6 2 7-2-19zM464 438l5 29 5-7 4 4 0 5-5 10-8 35-5 4-13-18-1-6-7-12 2-12 2-2 1 2 2-6 5 24 5-8 6 8-5-27zM454 436l4 18-1 6-6-11zM733 434l5 23 6-11 4 2-1 3 2 1-4 18-5 8-2-1-2 4-8-27zM748 433l3 6-1 4-3-5zM325 415l4 13 4 0-1 3 2 3-3 11-3 1-1 3 1 5-5 3-2-15-3-4 0-9 4-11 1 3zM575 408l4 18-1 5-5-14zM446 406l1 5-3 7 1 1 1-2 1 3-4 12 1 3-2 1 1 4-1 1-1-2 1 6-3 10 1 3-6 19 0 6-9 15-5 3-8 10-6-8 2-2-8-25 1-6-6-3-2-13 1-3 2 0 1 5 1-2 2 9 1-4 3 0 2-6 5 30 5-8 6 8-4-25 2 0 2 9-3-18 4-23 2 0 4 25 5-9 5 6 1-4-3-8 1-6 2 7-2-20 2 0 0 3 1-4-1 1-1-3 5-1zM601 403l3 12 2 1-1 6-2 0-1 23-4 8-5 21 4-6 5 9 6-23 4 22 6-9 7 7 4 14-11-43-6-7 2-1-2-2 2-15 2 0 1 7 0-2 2 0 1 6 1-6 2-2 1 2 2-7 4 28 6-9 7 6 5 14-10 35 2 2-3 5-2-1-5 11-4 0 0 5-6 6-12-12-2-14-4-8-7-4-8 9-7 17 1 3-5 9-4 2-4-3-4 3-13-15 2-3-5-14-1 3-2-3 2-2 0-7 2-3 5 23 6-9 5 7-4-24 4-20 5-10-1-4 4-3 8 10 2 9-4-19 5-24 2 0 4 24 6-11 5 4-2-11 1-6 2 6-2-11zM678 402l3 2 2 15 1-5 2-2 1 2 2-7 4 23 6-10 4 8 0 7-10 39 1 4-4 7-1 7-3 2-6 12-4 3-4-3 2-2-9-31 0-6 6-21 4 27 6-9 6 4-4-20 1-5 3 10-2-16-4-5 1-8-4-1-4-11 1-8zM496 401l5 14-2 6-2-1-2-13zM383 400l5 13 3-1 1 2-8 41-3 3-2-10 2 0 1 6-2-11 1-5 1 4-4-24zM648 398l5 12 3-3 1 1-2 6 1 3-2 2 1 3-2 1 1 5-2 0 2 4-6 25-3-12 1-5 2 5-5-23 0-7zM472 392l3 2 2 17 2-6 1 3 1-6 2 0 4 25 6-10 6 7-3 12 1 4-2 2-5 25 4-5 5 10 5-23 5 24 6-9 6 7-7-32-6-6 2-1-2-5 3-13 2 0 1 8 0-4 2 0 1 8 1-5 3 0 1-6 2 0 4 29 5-9 6 5-4-21 1-5 7 25-4-22 5-20 2 0 4 12 3-3 1 1-4 15 1-1 1 3-4 20 6-6 2 1-1 5 4 11 3 18-2 0-4-9-4 1-2 3-5-4-10 23 2 2-6 17-6 9-2-3-1 1 1 4-6 7-4-2-4-7-4-1 2-2-3-17-5-13-11-9-2-4 2-2-2-3 0 2-2 0-1-7-3 3-3-21 2 0 1 5-2-14-5-7 1-3-2-1-5-16 2-11zM599 381l1 8-2 0-2-4zM432 371l3 2 1 13-2 3-3-2-3-9 1-5zM560 370l3 2 0 3-3 2-3-2 0-3z"/>
<path fill="#007ac2" d="M551 457l-9 13 3-3 4 10 6-10 6 7zM609 433l-7 11 2 0 4 9 4-8 3-1 3 21 6 8-6-28-3-7zM1054 450l-5-17-8-44-4-9-6-4-10-38-5-12-5-6-2 0-9 22-8 42-4 5-3-2-12-41-7-10-7 11-6 22-8 18-4 3-3-2-10-35-5-10-3-2-10 21-5 29-3 5-5 0-15-47-4-8-3-2-9 20-5 24-5 4-6-5-6-24-12-30-2-1-9 19-4 19-4 2-6-3-3-5-10-38-7-14-2-1-9 19-2 10-4 4-10-7-6-26-12-28-2-1-9 17-1 7-4 3-3-2-1-4-7-5-5-21-12-32-3-1-3 3-6 16-3 2-2-1-4-9-7-4-8-31-8-22-3-2-3 1-7 14-2 1-4-3-3-10-7-5-12-43-4-10-3-2-3 2-6 13-10 42-8 14-7 37-3 2-3-2-4-19-11-32-3-4-3 0-8 16-9 39-8 14-6 31-3 2-4-4-14-50-4-5-3 0-9 21-7 33-8 13-6 29-3 2-4-5-14-54-4-5-4 0-7 14-9 40-8 13-8 26-2-6-3-1-11-47-4-10-5-5-7 11-10 43-12 19-4 15-2-6-3-1-14-57-7-8-9 18-9 38-7 12-1 6-3 1-1 7-2 1-2-7-3-2-7-33-8-26-7-8-7 11-10 43-8 13-3 13-5 1-18-74-7-9-7 10-10 38-9 24-5 4-3-2-17-75-6-11-9 10-7 29-6 7-7 26-3 2-3-2-14-69-10-23-8 9-11 44-7 12-5 14-7 28 8-29 3-2 2 1 3 6 9 68 8 39 9-9 7-27 6-11 3-2 3 2 8 48 0 6-2 2 6 31 6-5 4 10-1 6 7-8 4-16-1-7 4-13 8-6 3 2 7 51 1-1 1 2 3-3 4 24 6-17 3 5-1 10 6-5 7-26-2-1 2-8 3-2 3 2 4 20-2 6 6 34 6-7 6-19 4 23 6-22 2 3-2 10 6-6 1 1-3 18 9-30 1 5 1-4 2 4 2 17 1-1 1 2 3-3 5 28 5-18 5 23 6-23 0 9 6-6 1 1-2 9 1 6-1-4 2 0 5-21 3 1 0 3 1-5 3 18 1-1 1 2 3-3 4 26 6-17 5 22 4-19 2 0-4 28 6-8 3-10 1 3-1-5 1-1 1 2 6-25 2 8 0-5 2 0 2 10-2 4 5 30 6-6 2-14 2 0 2-5 6 27 6-5 1 1-3 15 8-31 1 2 3-18 2-1 5 10 3 2 2 18-2 2 6 25 6-6 3 6 6-6 7-29 2-1 7 13 6-6 1-4 2 0 0 5 3 0 6 21-2 2 4 4 3-5-2-1 6-16 4-3 2 1 1 13 7 13 6-8 2-10 2 0 0 3-1-6 1-1 1 2 4-17 2 9 1-4 2 4-1 10 7 24 4 5 4-9 6 10 7-9 6-24-2-1 2-7 3 2 0 3 7 11 2-14 2 0 1 6 3 0 8 17-1 3 4 5 5-10-2-4 4-14 3-2 2 1 2 5 0 12 7 11 6-7 1-5 2 0-1-4 2 0 1-11 5-12 5 8-2 4 6 26 7 7 5-6 5 6 6-23 4 15 4-26 2-1 5 6 6-8 3-9 0 8 1-1 2 3 3 14 7 10 6-9 6-22 3 8 1 12 5 7 6-28 2 0 1 5 5-22 6 6 2-3 1 12 1-4 2 8-2 0 3 2 3 17 5 6-6-26 1-1 3 4 4-7 3-1 3 21 6-20 5 18 6-26 4 6 2-6 2 6 3-21 2-2 5 6 3-1 0 8 1-1 2 2-1 3 1-2 3 4 1-3 4 4 3-7 3-1 4 22 6-22 4 18 6-27 3 4 4-6 1 2 4-23 2-2 7 7 2 11 5 6-1-4 1-1 4 4 4-9 3-1 3 21 6-22 5 20 4 6 7-32-1-6 1-1 1 2 2-4 5 5 6-12-2 23 5-23 6 24 4 7 0-4 4 1 6-11 4 18 6-24 3 4 1-10 2-4 1 2 1-4 7 5 6-12 6-24 7 7 2 8-2 4 11 27-1-3 3-1 6-12 4 6 5-23 2-3 5 3 6-13 5-23-1-5 4-4 4-17 2 8 0-4 2 0 4 21 5 14 9 10 5-15 3-18 5-3 4-8 12-70 3-1 3 2 11 38zM635 536l7 6-4 22-4 3-6-16 2 0-1-3 4-6-1-4zM581 523l2 10 2 0-1 5-3 2-3-2-1-4 1-2 1 1-1-3zM694 519l6 11 2 0-4 21-3 0-2 7-6-25 4-7-1-4zM747 508l4 25 3-5 2 0-1 8 1-2 1 4-3 0-1 5-2-1-6-24zM639 508l4 16 0 9-2 4-6-17zM810 503l3 10-2 8-3-11zM334 493l2 5-2 7 1-4 3 0-2 6-4 2-3-3 2 0 0-6zM697 484l5 21 4-7 3-1-4 11 2 1-3 12-1-3-2 6-6-17-4-2 2-1-1-3zM760 475l4 16-1 3 3 0-3 11-1-3-1 2-1-4-5-7zM388 470l3 11-2 4 2 1-3 4-1-3-2 4 2 2-3 2-3-2 2-1-1-3zM823 461l1 5-3 9-1-6zM784 437l8 9 0 8 2 4-1 4-5 3-5 11-3 2-4-3 1-3-3-3 3-17 4-7-1-4zM313 435l8 15 1 13-1 4-13 11-5-6 2-2-3-12 8-17 0-4zM763 426l2 8 1-3 2 3-3 9-4-5 2-2-2-2zM841 425l2 4 3 0 0 5-3 5-1-3-3 6-2-4zM267 420l5 15-1 3 1-1 1 2-8 8-5-9 3-1 0-6zM796 408l5 11 1-2 1 1-1 4 2 1-2 11-3 2-3 8-4-15zM678 404l3 11-1 5-4-9zM331 403l6 9-4 15 2 4-2 7-4 4-2 10-4 5-3-27 3-12 5-8 0-5zM472 394l4 22-1 5-6-17zM389 387l7 10-3 14 6-8 3 2 0 3-4 5-1-3-5 9 3 0-5 17 4 1-1 5 5 21-1 1-4-8-1 2-3-4-6 2-10 25 1 3-9 10-4-3-5 4-6-7-2-9-3 3-3-8 8-24 3-2 8 14 2 10-9-38 3-20 2-1 1-5 2 0 4 30 5-8 6 8-3-25 2 0 1 7 0-10 2 7 2-13 5-10 0-5zM709 384l0 6-3-1-1 2-1-3zM457 383l3 7-5 5-1-4zM752 382l2 5 3 0-1 7 3-4 1 1-3 15 2 7-3 3-2 15-2 2 1 4-2 5 2 2-4 7-3 16-10 20-5 2-7 9-9-10-3 4-2-4 3-19 6-18 2-1 7 8 4 14-8-36-5-4-3-6 1-3-2-2 4-15 2 10 1-6 2 5 2-11 3-2 2 1 4 21 4-5 7 7 4 12 0-17 0 3-2 0 1-9-3-11zM432 373l2 5-1 7-3-8zM406 389l3-2 3 2 2 13 0-3 3 0 1-5 2 0 5 29 5-8 5 6-3-19 1-7 7 25-4-24 6-20 4 13 5 0 0 8-2 1 1 4-2 1 1 3-2 5 1 5-4 13 6-7 3 4 2-8 3 0 2-6 5 24 5-8 7 7 3 11-5-22 6-22 4-7 0-5 3-2 7 9 4 14-2-12 1-6 2 8-2-17 4-3 2-5 0 6 4-3 3 4-4 15-3 1-2 13-2 1 1 4-4 17 2-1 1 2-6 11-4 21 4-7 5-22 2 0 3 10 6-9 3 3 1-1-2-7-6-6-4 4-1-1 7-31 6 17 3 21 9-36 2-1 7 9 4 14-3-23-6-19-2 0-3-5 1-12 4-5 3 2 3 17 0-3 2-2 1 2 1-6 2 0 3 23 6-9 6 4-4 25 2-8 5-5 2 3 0 6-4 2-4 8-6 25 5-5 4 10 6-24 5 24 5-9 6 5-4-25-3-7-6-5 2-1-2-6 5-20 2 9 1-5 2 7 0-3 2-2 1 2 1-6 2 0 3 27 6-9 7 6 4 13-2-16 2 0 1 7-3-20 1-1 1 2 5-24 4-3-3 26 3-1-1 6 1-2 1 4-2 8 4 1-1 5 4 11 3 19 5-24 7-12 5 32 5 4-4-21 1-5 3 9-5-26 2-9-2-5 0 12-4-12-4-2 1-13 4-5 3 2 2 16 0-4 2-2 1 2 1-6 2 0 3 22 6-10 6 4-3 21 1-6 5-7 3 1 0 7-3 3-1-2-5 10-1-2 1 5-5 18 1 2 3-3 4 9 6-24 2 8 0-3 2 0 2 11 4-5 7 7 4 14-4-24 5-22 6-13 5 24 5 4-2-15 2 0 1 5 0-6-4-14 4 0 1 6-1-7 2 0 3 13-2 2 1 4-2 1 1 4-1 1-1-2 1 7-11 42 5-6 5 12-8-3 2 2-7 6-5 10-1 7-4 4 2 2-5 9-4 3-4-4-4 4-9-11 0-6 4-6 6 6-5-24-3-7-8-7-8 14 3-4 6 11 3 24-6 5-6-9-6 5-3-3-5 15-3-3-4 8-4 3-12-12-8-12 1-2 1 1-4-5 2-3 5 5-4-8-6-6-6 10 2 0 4 10-2 2 2 2-4 9-4 1-5-3-6 5-3 6-3-2-6 4-13-15-2-10-8-14-6 9-7 23-3 2-2-1-7 6-2-3-1 2-4-6-4-1-9-15-3-11 3 0-1-3 2-2 6 7-8-14-5-4-4-7-1 2-3-4-8 13-9 38-5 4-13-18-6-15 0-6 7-22 4-3 6 8-5-11-6-7-2 2 1 3-4 1-6 10-5 20 1 6-4 1-5 10-5 3 1 3-7 8-6-8-2 1-3-2-1-3 2-2-3-5 1-2 4 5-5-22 2-2 3-15 8-13 5 8-4-27-3-8-3-1-4-6zM593 352l4 5 0 8-2 4-6-9 1-6zM490 339l3 2 1 4-2 14-1-3-3-1-2-7 1-7z"/>
<path fill="#0085bd" d="M699 465l-7 11 2 0 3 7 6-10 6 6-4-9zM654 453l-6 11 5 9 5-11 6 6-4-9zM389 450l-8 10 3-1 4 10 5-8 5 7-2-7zM447 444l-9 12 4-4 4 11 6-9zM507 429l4 11 5 5-4-11zM713 422l-3 6-4 2 0 4-2 0 1 5-4 18 4 8 6-24 4 22 6-11 6 5-4-23-4-8-1 1zM564 403l-9 14 3-4 5 11 6-10 6 6-5-11zM366 378l-1 4 3 16 6 8 3 14-5-26 2-4-1-10-1 12-4-14zM424 361l-1 4 3 17 7 10 3 13-4-24-6-20zM405 324l-5 9-4 20 3 0 1-4 2 0-2 10-2 2-2-2-1 2-2-11 0 12-1 1-7-5-3 1-6 11 1 8 1-5 2 0 4 25 5-9 6 7-2-17 2 0-2-17 2 0 0 3 0-4 2 0 4 14-7 34 5-4 1 2-9 14-5 20 5-4 4 12 6-22 6 24 5-8-5-23 1-2 4 4-3-8-1 1-3-3 2-2-2-2 3-18 2 0 3 24 9-31-4-20-6 0-4 12-4-2 6-17-3-10 4-13-3-8zM1054 450l-5-17-8-44-4-9-6-4-10-38-5-12-5-6-2 0-9 22-8 42-4 5-3-2-12-41-7-10-7 11-6 22-8 18-4 3-3-2-10-35-5-10-3-2-10 21-5 29-5 6-4-2-8-30-10-24-3-2-9 20-5 24-4 4-4-4-2-6-3-1-11-38-4-9-3-2-9 19-4 19-4 2-10-11-9-35-7-14-2-1-9 19-2 10-4 4-10-7-6-26-12-28-2-1-9 17-1 7-4 3-3-2-1-4-7-5-5-21-12-32-3-1-3 3-7 17-2 1-4-3-2-7-7-4-8-31-8-22-3-2-3 1-6 13-3 2-4-3-3-10-7-5-12-43-4-10-3-2-3 2-9 22-7 33-8 14-8 38-2 1-3-2-4-19-11-32-3-4-3 0-7 13-9 39-9 17-6 31-3 2-4-4-14-50-4-5-3 0-9 21-7 33-12 22-4 19-2 0-1-5-4 13-7 1-7 13 2 9 1-7 2 0 4 25 6-10 7 7-5 24 2-8 5-4 3 6-3 3 2 1-1 2-4 2-3 6-6 24 4-4 5 11 4-19 7-14 5 25 6 8-7-33-7-7 2-2-2-3 4-22 2 0 1 8 0-3 2 0 1 8 1-4 3 0 1-6 2 0 4 29 5-9 6 6-4-27 2 0 2 9-1-11 7-24 5 14 4-1 0 10-2 0 1 5-2 1 1 3-2 5 3-1 1 3-6 22 5-4 4 11 6-23 5 24 5-9 6 6-4-27-3-6 2-13 2 0 4 29 9-37 2-1 7 8 4 13-2-20 2 0-5-21 1-6 4 15 4-2 1-3 1 1-2 11-3 0 5 17-2 5 1 3-2 1 1 4-2 1 1 5-4 18 4-6 5-29 2 0 5 13 3 23 5-23 7-13 5 33 5 4-3-25 2 0 1 6-6-29 1-3 2 0 4 24 5-25 5 13 3-2 2-6 0 8 6-9 4 11-4 9-4 2-3 6-6 25 5-4 4 10 6-24 5 23 6-10 5 5-4-26-2-3 3-15 4 29 5-24 7-14 5 28 5 3-3-16 1-5 2 7-1-13-4-8 1-5 1 3 1-2 1 1-1 4 2 0 1 7-2-9 1-4-4-1-3-12 3-5 2 3 1-2 3 7-1 6 3-3 1 1-1 7-3 2 5 14-1 4-2 0 2 4-2 2 1 3-2 1-1-2 2 7-2 0 1 5-3 13 5-5 2 3-4 5 2-2 2 1-3 4-2-1-4 8-6 26 4-5 7-27 6 15 3 19 5-10 6 4-4-24-3-6-5-4 2-1-3-3 5-22 2 9 1-5 2 5 0-4 2-2 1 2 1-6 2 0 4 27 5-10 7 5 4 13-2-20 2 0 1 4-5-19 0-8 6-22 2 5 3 0-1 8 3-3 1 11-2 0 1 6-2 0 1 6-1 1-1-2 3 5-5 19 3-6 5-2 6 33 6-24 4 27 6-10 6 4-3-24 2 0 2 5-3-14-4-4-7-25 2-9 3-2 3 2 2 14 2-11 3-2 4 5 1 22 4 12 4-5 1 1-5 26 5 0 5 23-1 1-4-6-1 2-3-1-1-3-2 4 2 2-4 2-5 10-5 20 2 2-6 5-6 11-3-1 1 4-4 6-4 0-6-7-8 16-3 14-2 2-1-2-2 7-5-20-6-10-4-1-9 11-2-3-6 5-10-12-4 5-1-2-2 4-11-15-5 9 4 10 6-10 6 6-1 3 2 0-8 28-1-3-2 6-2-1-2-14-4-8-6-3-7 6-2-3-2 1-17-21-8 14-2-1-2 4-5-7-6 9 5 8 3-7 3-1-2 9 2-4 1 3-4 16-3 2-3-2-1-6-9-13-4 3-2-1-6-10-5-4-2-10-8-14-6 9-5 18-2 2-1-2-2 5-2-3-4 7 3 8-1 7-3-2 2-2-5-10-1 3-4-7-5-2-9-15-5-21-8-15-4 3-5 10-8 35-6 7-13-18-1-6-8-15-5 5-2-1-5 7 2 0-2 5 2 2-1 5-3 2-4-2-2 2-2-1-4 6-2-4-2 1-2-3-2 1-3-2-8-17-9 8-4-8-2 1-3-4-3 1-7 9-2-4-4 6-5 0-7-14-3 3-3-15-10-20 1 3-9 9-2 7-10 10-5 0-3-5 2-2-8-33 0-7-3 1-6-14 0-6 4-5 3 2 2 14 2-4 1 2 1-6 2 0 5 30 5-7 6 9-3-22 2 0-2-13-5-9 1-3-2-1-4-15 1-7 3-2 3 2 3 19 0-3 3 0 1-5 2 0 4 26 5-8 5 6-2-17 2 0 1 6 0-6-3-13 3-5 6-2-2 8 3 0-1 4 2 1-3 3-1 11-3 1 0 2 1-2 1 4-3 14-4 7-5 18 4-3 5 12 6-22 5 25 5-7 6 9-5-27-6-14 2-14 2 0 3 24 4-18 5-8-5-24-6 0-4 10-4-2 4-8-1-9 5-1 7-9-3-12-5-4-4 1-6 12-5 20-2-2 0-5-1 2-2-2-14-57-6-8-3 2-5 10-11 44-3 5-3 0-3 6-5 20-2-9-1 4-3-1 2-6-8-34-8-26-6-8-8 11-10 43-7 12-3 1-1 4 2 3-3 0-2 6-3-11-3-1-14-61-6-9-8 10-11 41-3 4-6 19-4 2-3-2-17-75-6-11-9 10-6 26-7 10-7 26-3 2-3-2-14-69-10-23-8 9-11 44-7 12-5 14-7 28 8-29 3-2 3 2 4 13 6 53 5 26-2 6 5 17 9-7 8-32 6-11 3-2 2 1 6 26 3 30 2 2 3-3 5 26 4-17 2 0 3 7-2 10 7-6 4-17 7-7 1 5 3 0 2 11-2 5 5 34 6-7 6-18 4 23 6-22 3 5-1 10 4-4 1 1-3 17 8-29 2 3 4 26 6-7 2-17 4-4 3 2 2 15 2-5 1 4 1-7 2 0 4 23 5-17 2 0 2 5-5 9-4 18 6-6 5-15 0 9 1-4 2 0 4 25 6-7 2-13 4-6 4 27 6-22 2 4 3 19 6-18 2 3-4 8-4 18 6-6 4-12 2 5 1-3 2 2 3 19 6-6 2-7-1-7 3 0 2-5 4 26 6-22 6 23-1 6 6-5 4-12 2 4-1-3 2-1 2 8 1-3 2 3 1 7 1-1 1 2 3-3 4 26 8-27 0-12 2-4 4 0 3 13-2 1 2 14-5 25 7-7 2-9 2 0-1-4 2-1-1-2 4-13 4-6 5 7-2 4 5 29 6-5 5 19 5-17 2 2 6-6 1 1-2 12 4-19 2-1 1 3 4-20 2-1 4 8 2 0 1 4 3 2 5 24-2 4 5 10 6-5 7-17 4 15 3-25 2-2 5 9 6-7 3-9 2 7 1-2 2 2 4 18 3 3 1-3 3-1 5 21 5-22 3 5 1-3 3 5 4-5 1 1-3 17 6-26 2 0 1 5 4-22 3 3 0 4 0-3 2 0 6 23-1 4 9 15 7-8 0-11 2-2 1 2 2-7 5 18 3-26 2-2 7 5 4-5 1 1-3 23 4-18 2-2-1-4 3-2 3 12 8 14 6-7 4 18 6-19 4 6 6-25 2 0 2 9 3-21 2-2 2 3 5-1 2 2 0 12 1-2 1 1-1 7 0-2 2 0 3 15 5 9-4-23 1-1 2 3 5-8 2-7-1-9 2-7 3-2 4 5 0 15 5 25 6-25 3 4 6-22 10 13 2-3 7 14-5-20 1-1 4 5 5-9 5 19 6-22 4 22 6-25 5 20 4 6 5-21 7-11 6 20 5 8-4-18-3-5 2-1 5 6 6-11 4 19 6-22 5 23 6-27 4 20 4 6 8-27 2-2 7 6 2 10 5 6-6-26 1-1 4 5 6-11 5 19 5-22 2 0 1 7 0-3 2 0 0 4 3-14 3-2 4 5 0 17 5 6 8-28-2-2 5-5 4 3 3 13 5 8-2-7 6 2 4-9 3-1 4 23 6-24 4 20 4 6 3-17 3-4 3-23 2-2 3 2 2-4 1 3 4-8 1 5-2 10 4-15 6 23 6 8-1-5 3 0 6-12 5 18 5-25 3 4 2-11 3-1 2-9 4 1 1-2 1 3 2-4-2-2 2-4 4-2 3-14-1-11 4-5 4 5 11 45 9 7 6-17 0-14 5-6 2 1 5-10 0-4-2-1 11-65 3-2 4 2 11 38zM629 565l4 7-2 8-3-10zM685 556l8 11-2 1-4 14-6-20zM577 542l4 3-2 16-4 4-3-2-2-13zM636 537l6 10-3 13-3 0-2 5-5-19zM625 525l3 8-1 4-3-8zM802 515l5 20-3 14-3-5-4-17-3 0 4-10 1 2zM684 510l4 20 6-9 6 7 0 3 2 0-6 29-2 0 0-4-2 8-4-14 1-4 1 3-1-9-7-23zM284 507l1 3-2 5 2-2 1 2-4 7-3-9zM374 496l4 14-2 9-3-9-3 0zM854 492l3 2 3 11-3 4-3-2-3-11zM742 486l2 7 1-3 2 3 1 7 4-5 7 8 1 9 2 0-4 21-2 3-1-1-6 27-3 6-3-2-5-18 5-8 6 6-3-19 2 0-4-14-4-4-2-7 2-2-1-6zM235 476l3 11 0 10 2 0-3 4 1 5-3 2-3-2 1-5-2-1 1-3 4-1-3-14zM805 475l5 26 5-11 2 2-1 6 0-2 3-1-3 16-2 4-1-4-2 10-2-3-5-29 1 3-3 0-2-10 2-3 1 3zM329 467l5 24 6-6 1 1-4 8 2 1-3 10-1-3-2 5-2-1-3-14-3-1-3-9 2-9 2-2 1 2zM868 461l4 18 2 0-4 5-1-3-3-1-2-7 0-7 2 0 0 5zM289 456l4 22-1 4 2 2-2 4-1-3-1 4-4-14-3-4 1-9 3 0zM756 452l4 21 6-11 7 6 0 5 2 2-9 16-2 8-1-3-2 8-6-21-6-5 2-2-1-3zM296 449l5 7 3 9-5 7-2-3zM254 433l8 16-1 1-2-4-1 4-11 10-2-3 2-11zM819 431l3 2 3 18 4-5 4 5-10 25-1-4 0 2-2 0-2-10-4-3-2-6 3-19zM208 417l2 3-2 3 2 1-4 3-3-4 2-3 1 2zM837 399l3 2 1 24 4 11-3 4-1-2-2 4-7-22 1-3-2 0 2-13zM276 398l4 12-2 8-3-15zM262 392l5 26 5-6 5 6-2 15-5 6 1 3-2 2-1-2-3 3-1-5-2 0 1-6-5-22-3-1 2-13 2-2 1 2zM280 391l3 9-1 3 2 0 0 3-3 1-1 3-3-17 2 0 0 4zM782 379l3 2 2 13 0-4 2-2 1 2 1-6 2 0 3 21 6-11 6 14-4 17-3 1-3 14 2 2-6 13-1 7-5 3-5 11-3 2-4-3 1-3-3-3-6-24 6-22 4 26 6-10 6 4-3-18 1-5 2 6-2-14-4-5 1-7-4-1-3-9 1-9zM515 352l5 12-3 3 1 2-2 2-1-2-4 7-1-4zM696 349l3 9-1 4-3-7zM451 347l5 14 0 6-2 2-4-18zM490 341l3 12-1 7-4-13zM514 326l3 2-3 4-3-2z"/>
<path fill="#008fb7" d="M627 508l-5 7 3 9 6-9 6 8zM685 492l-5 9 4 9 6-11 3 4zM731 490l-7 8-7-8-3 3-7 16-7 33-4 5-6 27 3-4 4 5 5-21 2 0 1 6 0-3 2 0 1 4 3-16 3-2 2 1 2 5 0 22 5 18 5-22 6 6 5-8 6 7-4-5-2-15-4-6-4-19 2 0 3-9-1-4 4-3 9 16-7-25zM744 467l-7 12 2 0 4 8 4 19 5-9 6 4-4-20zM757 431l-6 11 5 9 5-11 2 0 3 20 6 7-5-23-4-8zM712 419l-7 13 2 0 4 8 6-11 5 3-4-8zM344 412l-11 15-5 19 4-5 6-21 5 11 6-7 4 6-2-8zM403 405l-6 5-4 7 5-2 3 11 6-9 6 7zM667 399l-10 17 5-6 4 10 6-11 6 5-5-10zM461 389l-5 4-5 10 4-4 5 12 5-10 6 7-4-12zM473 338l-4 3-4 15 7 36 5-23 4-7-5-23zM483 335l-1 5 3 18 6 8 3 12-3-23-6-20zM463 292l-3 4-6 25 6-2-1 8-2 4-2 0 6 15-1 3 4-3 3-14 3-5-2-7-3-1 4-19-3-7zM371 288l-8 11-9 38-10 15 3-1 1 4-5 19 2 0 1 3-5 18 5-5 5 11 5-21 5 25 6-7 6 7-7-32 3-11 4 30 4-17 5-9 0-5 3-2 7 9 3 14-2-20 2 0 0 3 1-5-2 0 1-3-7-26-3-1-6-27zM354 349l3 9-6 6-1-4zM70 286l-11 44-7 12-7 20-5 26 8-33 3-2 2 1 5 14 11 83 1-1 1 2 3-3 4 10-1 8 7-8 5-16-2-2 1-6 10-15 2 6 1-2 4 15-2 6 5 35 6-7 3-10-1-2 4-6 4 24 6-22 6 7-3 11 4-4 1 1-3 14 5-21 2-2 7 30 7-13 0-10 2-3 4 0 4 18 0-3 2-2 1 2 1-6 2 0 3 22 5-16 2 0 3 11-5 5-4 19 5-5 3-11 2 0 0 4 1-4 2 3 6-6 4 23 6-17 5 28 3-18 5-15-1-4 2 0 2-5 6 25 5-5 2 3-2 7-7 9 4-4 2 2-1 4 1-3 3 5 6-6 4 22 8-27-1-8 2-7 3-2 3 2 2 18 0-3 3 0 1-4 2 0 5 23 4-5-4-21 1-3 6 11 1 7-2 8-8 12 5-4 0 7 1-3 3 2 5-5 5 22 8-28 0-12 4-5 3 2 2 17 0-3 3 0 1-4 2 0 3 21 2 2-2 4 4-5 2 1-3 14 1-5 2 0 0 3 0-3 3-1 4 19 6-7 6-18 4 25 6-22 4 21 0-2 2 0-1 6 6-6 4-12 0 9 4-7 1 4 3 0 1 6 1-1 1 2 3-3 4 25 6-17 4 20 3-15 2 0-3 19 6-6 3-9 1 2-1-4 2-1-1-3 2-1-1-2 5-11 1 2 4-7 1 4 3 0 3 19-2 6 6 24 5-5 4 3 4-5 2-13 6-16 3 2 1 6 6 11 4-21 3-5 2 3-1 10 0-2 2 0 4 20 6 10 5-13-2-5 4-14 2-1 4 4 0 12 7 18 7-9 3-13 2 0-1-4 2-1 3-9 3 2 0 3 3 1 3 13-1 8 3 8 6 7 5-6 4 6 7-22-1-8 2-9 4-5 2 2-1 4 2 8 6 10 6-8 3-10 2 0 1 6-2 3 3 0 2 11 5 8-4-20 1-1 1 2 6-8 5 24 5-20 5 19 6-25 3 4 4-18 3-2 2 8 6 9 3-4 7 13-4-16 1-1 2 3 6-8 5 18 4-19 2 0 4 22 6-25 4 20 5 6 6-23 2 4 4-9 5 6-3-6-4-24-3-1-2-8 0-7 6-7 8 12 2 10-7-31-7-6-4-7-2 3-4 0-8-11-8 15-9 38-3 1-5 21-4-17 1-6-2-1 1-3-5-19-6-11 0 2-2 0-17-22-8 14-5 21-2 3-1-3-2 8-3-9-10-14-4 5-2-3-2 1-4-7-5-4-2-10-8-14-8 14-8 31-3 1-1 3-5-4-6-12-5-2-9-15-5-21-8-15-4 3-5 10-8 34-3 1-3 5-2-4-1 2-10-14-1-6-8-15-4 3-6 17-3 0-2 3-3-4-5 6 4 11 1-2 1 1-1 4 2 3-3 2-4-2 2-3-6-11 0 4-5-8-2 1-3-2-8-17-5 5-2-1-2 4-9-15-6 8 2 0 3 9 6-7 4 5-1 3 2 0-6 20-1-2-3 6-3-14-9-18-2 4-5 3-3-2-5-10-5 4-6 17-3 0-2 6-8-29 3-11 8-11 5 7-9-18-10 11-2 7-4 3 1 2-4 5-4 2-6-7-9 14-1-3-2 7-5-16 2-14 8-11 6 9-5-23 9-29 3-2 2 2 0 3 6 8 2 10-3-21 9-28 2-2 7 10 4 15 0-18 0 3-2 0 1-10-6-27-3-1-9-35-6-8-3 2-5 10-10 40-8 11 3 1-3 9 0 12-5 17-1 13-6 15 3 4 0 4-2 2-4-3-10 11-3-2-9 11-1-3-1 2-2-2-2-15-5-9-1-11 2-7 3 0 1-5 2 0 5 30 4-6 6 9-3-19 1-7 2 5-3-16 3-12 5-7 0-4 3-2 2 2 0 3 6 8 3 14-2-11 1-6 1 5 0-6-8-38-3-1-9-33-6-8-8 11-9 39-11 16-3 11 2 11-3 6-3-12 1-9-1 3-3-3 1-4-15-62-6-9-8 10-11 41-3 4-6 19-4 2-3-2-17-75-6-11-9 10-7 29-6 7-7 26-3 2-4-5-12-62-5-16-6-11zM627 562l6 10-3 9-2-1-4-11zM577 544l4 8-1 4-3 0-2 7-3-12zM518 541l3 2-2 9-3 2-3-2 0-6zM371 520l5 11-3 12-3 3-6-10-1-6 2 0 0-3zM326 501l8 14-4 16-2 3-1-3-2 8-4-22-3-2 0-3 2 0-1-3zM279 473l3 1 6 11 2 11-4 19-3 0-2 6-5-25-5-9 3 0-1-3zM241 469l2 2 0 5 1-1 1 2-3 14-3 0-3 9-3-21zM190 431l5 20 0 9 2 0-1 6-4 4 2 1-1 4-4-2 0-3-2-1 3-7-5-25 2-2 1 2zM214 410l3 7-6 6 0-3-4 4-1-4zM292 408l3 10-1 6-4-8zM310 376l3 12-1 5-4-11zM429 263l-3 2-5 10-9 39-3 1-7 13 4 0-3 11 2 5-3-1 2 2-2 9 4-2 1 3-7 24 4-3 5 11 6-22 5 26 5-9 6 7-4-24-4-12 3-13 2 0 4 30 8-34 3-2 7 9 4 14-2-17 2 0 1 7-6-36-4-4-10-38zM492 314l2 8 1-6 2 0 3 24 6-9 7 5-5 28 2-8 5-4 5 12-6 6-4 8 5-2 3 11 6-11 6 6-5-12-6-5 7-30 2 9 1-5 2 7 0-3 2-2 1 2 1-6 2 0 5 29 4-10 6 5-3-20 1-8 7 26-7-36-3 0-3-11 1-12 3-2 4 5 1 25 4 13 5-24 4-3 2 1-4 15 1 10-2 0 1 2 4-3 1 4-8 31 5-6 5 11 5-24 5 25 6-11 7 6 3 12-3-21-7-22-4-4 2-16 4-5 3 2 2 17 0-4 2-2 1 2 1-6 2 0 3 23 6-10 6 4-3-22 2 0 5 17-2 3 1 3-4 18 5-4 4 9-5 5-6 12 5-5 4 11 6-12 6 5-5-11-5-5 6-29 2 9 0-4 2 0 1 8 1-7 2 0 0 3 1-8 2 0 4 28 6-11 7 5 3 12-2-20 2 0 1 4-2-6 1-4-5-14 1-4 5 14 4-5 0 7 6-9 2 3-8 29-2 0 1 3 5-7 3 0 6 35 5-25 4-7-1-4 4-4 7 7 4 13-4-22-6-18-3-1-2-5 2-15 4-5 3 2 2 15 2-11 3-2 3 2 3 14-2 4 5 21 4-4 1 1 6-10 2 2 1 12-6 5-9 35 4-6 5 9 6-25 4 22 6-10 7 5 4 12-6-25 7-26 5 23 5-12 7 4-3 16 5-9 4 0-2 7-3 0-6 11-4 26 4-7 4 8 6-25 5 22 6-11 7 5 3 11-4-21 5-22 7-14 5 25 5 3-3 11 2 4-4 14 3 2 2 8-2 1-2-2-4 7-4 2-5 17-4 1 1 4-5 10-3 2-5-4-9 17-6 33-3 1-3 13 1 6-4 13 3 5 2 0 5-21 2 0 1 6 0-3 2 0 0 3 3-16 3-2 2 1 3 9-2 6 6 30 6-23 4 7 6-10 6 7-3-5 0-9-2-1 1-4-2-1 1-4-2-1 0-6 6-10 6 6-3-13 1-5 2 7-4-20-4-4 3 0 1-11 4-7-1-4 4-3 7 8 4 14-5 23-4 5-7 33 4-7 4 4 6-23 5 16 4 27 6-27 2 4 2 14 6-23 5 6 5-8 5 5 2 9 5 8-4-12 1-3-2 0 1-5 0 2-2 0 0-9 6 2 6-11 4 18 5-22 2 0 1 7 1-4 2 5 2-15 3-2 4 5-1 8 2 9 4 6 3-14 3-1 4 3 7-13 6 10-1-8 2-1 4 2 6-12 4 23 6-24 4 20 5 6 4-23 2-1 5 3 6-12 6-28 1 3 1-2 2 2 5 32 4 10 5 6-1-3 8-14 3 3 6-31 3-2 3 1 11-66 3-2 4 2 11 38 7 15-5-17-8-44-4-9-6-4-10-38-5-12-5-6-2 0-9 22-8 42-4 5-3-2-12-41-7-10-7 11-6 22-8 18-4 3-3-2-10-35-5-10-3-2-10 21-4 26-3 6-1-3-3 4-3-9-3-1-11-36-4-8-3-2-5 8-9 34-5 4-3-2-2-7-3-1-7-26-9-21-2-1-9 19-3 15-3 0 0 3-2 1-4-2-3-7-3-1-9-34-7-14-2-1-10 25-2 3-1-2-2 5-12-11-4-20-12-28-2-1-9 17-1 7-4 3-3-2-1-4-7-5-5-21-12-32-3-1-3 3-6 16-3 2-2-1-4-9-7-4-8-31-8-22-3-2-3 1-7 14-2 1-4-3-3-10-7-5-12-43-4-10-3-2-3 2-6 13-10 42-8 14-7 37-3 2-3-2-4-19-11-32-3-4-3 0-8 16-8 36-9 17-4 21-3 1-2 9-3-5 0 10-2 3 1 6-5-2-3 1zM865 502l2 5-2 7-4 5-2-6zM915 476l3-2 3 1 3 5-5 2-4-3zM874 448l2 10 1-1 1 2-3 17-2 4-1-4-2 9-4-13 0-7zM819 433l4 25 5-9 3 1-5 9 2 3-3 8-2 0 0-3-2 8-7-21zM882 410l3 10-1 8 2 2-2 2-1-2-2 4-5-12 3-8 1 3zM837 401l4 22 6-12 3 2-1 3 3 0-3 12-10 19-1-3-3 4-4-19 2 0 2 8-3-18zM852 384l4 12-2 5-3-12zM782 381l3 13-1 5-4-10zM807 365l4 12-3 16-3-11 1-4 2 6-2-13zM737 354l4 21-1 7-6-14zM761 350l5 12-2 8-3-8zM652 302l3 2 1 4-1 13 2 8-2 3-3-11-2 0-2-4 0-10z"/>
<path fill="#009ab2" d="M640 548l-2 3 0 11-3 10 4 7 4-19 2-3 2 7 1-4-1-6zM331 525l-3 2-7 25 4-4 4 8 5-17 2 0 1 5 1-3-1-9-3-6zM673 506l-6 10 5 24-5 3-4 8 1 8 1-5 2 0 3 17 6-7 5 7 1-4-6-32 4-6 6 6-4-19-6-9zM734 490l-4 0-6 8-8-8-8 16-2 10-4 4-7 34 4-7 6 10 3 15 6-27 4 23 6-21 4 18 6-7 6 7 1-1-2-1 1-5-2 0 1-6-7-29 7-10 6 6-5-19zM317 467l-8 9-3-3-1 2-3-4-6 8-10 35-3 1-6 24 3-2 4 9 6-19 5 22 6-23 4 26 5-16 7-7 6 11-4-33 2 0 5-6-4-16 1-5 3 4zM316 484l4 17-1 6-5-17zM792 465l-4 0-8 11-2-3-3 1-9 17-1 8-4 5-7 37 3-7 6 7 3 18 6-28 5 24 5-23 5 19 6-9 6 6 1-1-2 0 2-5-3 1 2-6-2-1 1-4-2-1 1-4-6-24-2 1-1-2 9-13 7 6 4 12-8-31zM787 479l4 15-1 5-5-15zM357 502l5 33-8 6-1 7 1 1 1-4 2 0 3 15-1 6 6-6 1 1-3 16 1-5 2 0-1 8 3-12 5 19 6-7 2-8-1-5 1-1 1 2 2-6 5 25 6-23 4 20 7-6 1 1-4 22 6-18-1-2 2-1-1-3 2 0 0-3 4-5 7 36 6-6 4 20 4-15 2-3 1 1-3 22 6-8 6-23 3-1 1 6 5-21 6 8 2-2 2 4 2 0 4 20 4 5 4-1 1 3 5-21 6 21 3-25 2-2 7 6 4-4 1 1-4 22 4-17 2-1-1-3 2-1-1-3 3-2 8 35 5 8-3-16 6-7 5 18 5-18 5 6 5-21 2 0 2 11 5-22 6 8 3-4 1 4 2 0-1 5 1-4 7 14-4-21 6-7 4 18 4-16 2-3 4 22 6-23 2 7 1-3 2 3-2 4 2 9 4 6 5-19 2 0 1 5 4-9 2-1 2 2-5-25-3-1-2-10 2-2 2 1 2-3 6 8-4-17-6-12-3 0-7-7-9-13-8 14-11 47-2 3-1-3-3 12-2-6 1-8-7-29-15-18-2-10-8-14-6 9-11 37-1-2-2 6-7-15-9-4-9-15-5-21-8-15-4 3-5 10-9 39-4 5-3-2-11-18-1-6-8-15-4 3-4 8-7 27-3 0-1 4-9-16-9-3-9-17-7 11-11 43-3 0-2 6-4-18 6-7-4-20 3 1-4-8-3 1zM568 560l6 8-3 7-4-10zM518 543l-1 7 2 2-2 1-2-6zM364 542l4 7-2 6-3-8zM416 530l-1 8 2-3 1 2-5 6-3-4 2 0-1-3zM802 434l-7 13 1-2 6 9 3 19 6-10 6 4-5-21-4-8zM817 354l-6 25 1 3-2 2 1 3-2 0 1 6-2 10-3 5-6 27 5-7 4 7 6-25 5 21 6-11 6 4 4 13-3-19-7-18 1-4-1 3-2-4-4-2 2-1-2-2 2-13 2 0 1 9 1-12-6-11 1-7zM416 342l-5 4-6 12-5 21 3-2 7-26 5 13 6-9 3 3-1-8zM1011 320l-2 0-9 22-8 42-4 5-3-2-12-41-7-10-7 11-6 22-9 19-6-1-10-34-5-10-3-2-10 21-5 29-6 9-5-5 0-8-5-19-12-28-2-1-5 8-7 27-4 4-4 23-3-4-1-12 2 0-8-31-3 2-7 0-7 17 2 6 1-6 2 0 4 26 6-12 6 4 5 13-1 3 1-1 1 2-3 5-3 15-10 20-6 2-5 10-9 32-3 18 5 9 4 17 5-28 5 24 6-24 4 19 6-10 6 6-2-22-4-6 9-14 6 5-2-25-2-6-4-4 1-2 1 1 3-16 5 25 6-11 3 1 0 4 2 0-1 6-4 5-8 46 2-3 4 5 7-25 9 43 4-27 2 0 4 17 6-24 3 4 4-8 1 2 2-3 3 3 3 12 6 8-4-12 1-3-2 0 1-4-1 2-1-1 1-5-2-6 2-1 5 4 4 18 6-14 1-21 4-5 4 5-1 10 6 30 6-30 3 4 4-18 3-2 3 1 2-4 0 5 4-9 0 12 2-11 2 0 5 24 6 9-2-8 5 1 5-13 5 20 4 6 7-33 6 1 5-27-2-1 6-41 3-2 4 2 11 38 7 15-5-17-8-44-4-9-6-4-10-38-5-12zM850 467l4 18-1 7-5-17zM913 452l3 9-1 6-3-8zM877 429l3 7-1 6-3-9zM926 408l3 2 5 20-2 7-1-2-2 6-2-6-4-4-2-8 1-10zM887 396l4 13-1 6 2 2-10 19-3-2-1-11zM867 387l3 8-2 6-3-3 2-2-2-2zM785 306l-9 19-4 18-4 4 0 5-2 0 0 14-4 19 5-6 1 2-7 13 4-5 2 4 4-4 2 1 2-4 6 25 5 3-6-27-5-5 1-3-3-2 4-20 2 4 3 18 5-26 5 28 7-12 6 4 3 11-2-18 2 0 1 4-9-36-3-1-4-15-5-10zM754 306l0 7-2 1-1 5 4 24 5 3 4 12-2-16 1-1 1 3 0-9-2 0 1-3-2-2-5-24zM311 304l-7 12-3 12-5 7-8 37 2-7 5-3 2 3-2 3 2 1-4 1-5 8-5 20 5-3 4 12 6-21 5 25 5-6 6 8-4-28-4-10-5-4 4-22 2 0 1 7 0-3 2 0 1 9 0-3 3 0 1-5 2 0 5 30 4-7 6 7-3-26 2 0 2 7-10-43-3-1-3-11zM436 301l-6 11 0 8 2-5 2 0 4 30 5-9 6 6-3-21 1-6 8 32-3-24-6-23-3 2-4-2zM413 298l-8 39 2-7 5-3 5-24-1-4zM371 288l-8 11-4 17-4 5-7 32 6-4 3 9-10 13-5 22 3-2 7-25 2 6 1-3 2 5 5-4 6 8-3-11-7-9 6-24 5 26 5-22 6 32 5-9 6 6-4-26 2 0 2 9-3-19-4-6-8-30zM78 277l-8 9-11 44-7 12-5 14-7 28 8-29 3-2 2 1 3 6 8 61-2 1 6 33 6-7 6-19 3 7-2 14 6-6 0 5 7-27-2-4 1-4 3-2 4 3 5 29 1-1 1 2 3-3 4 29 8-26 0-12 4-5 3 2 1 27 4 8-3 12 6-6 3-10 4 6 2-5 1 2 3-3 4 23 6-16 5 29 8-30 0-6 4-6 5 25 5-5 3 6-3 8 3-3 5 11 6-18 4 22 5-21 2 0 3 27 4-14 5-6 0-3 3-2 2 1 0-13-2-1 1-5-3-9 3 0 1-10 3-3 1-5 3-2 7 13 3 18 1-1 1 2-6 24-4 5-6 23 3-3 5 10 6-19 4 22 6-22 4 27 5-16 7-7 6 11-3-18 2 0 0 3-9-45 2-6 2 0 4 24 5-6 6 10-8-38 7-22 4-3 5 8-2-8-7-11-3 2 1 2-4 1-5 7-3 14-11 14-3 0-11 10-2-2-6-30 3-15 5-7 0-4 3-2 8 15 2 11-2-15-7-25 3-14-1-7 3 0 1-5 2 0 4 30 5-6 6 8-4-27 2 0 2 10-2-18-4-6-4-17-8-20-4-3-7 11-9 39-4 4-2 10 2 4-3 9-3 1-1 8-4 8-2-3 0-18-6-27-3-1-9-38-6-9-8 10-11 41-3 7-4 3-5 13-2-1-2-10-3-2-12-55-8-18-9 10-7 29-6 7-7 26-3 2-3-2-14-69zM196 422l3 7 5 5-6 24-2 2-1-2-1 7-2 1-5-28 6-14zM150 405l2 3 0 6-3 7-2-9zM212 385l5 9 3 12-5 9 2-2 0 4-8 8-2-1-3 2-4-19 1-8-2-4 3 0 1-5 2 0 4 26 5-6-3-18zM486 230l-9 21-5 26-3 1-1 5-8 13 3-1 1 2-2 6 1 4-2 1 1 4-2 2 2 4-2 1 1 3-2 3 6-3 2 4-3 5-6 25 5-3 4 11 6-23 5 26 6-10 5 6-4-28-4-9 4-19 5 31 5-23 7-13 5 30 6 4-5-23 2 0 3 12-2-18-4-9 1-4 3 2-1 2 3 9-1-15 4 13 4 4-5 21 1-5 6-5 2 1 6 38 5-23 4-7-1-4 4-3 7 7 4 14-3-20-4-12 2-11 5 26 6-25 4 15 4-2 1 4 6-8 3 2-1 6 4 13-5 2-6 9 0 2 4-1 3 11 6-11 4 1-1-8 4-15 4 29 10-37 3-1 1 3 5 3 4 13-2-18 2 0 0 3-2-9 1-4 4 11 4 3-4 18 7-9 2 1-1 5 4 12 3 21 3-21 6-18 3-1 1 3 5 3 4 13-6-28 1-11 2 0 3 23 6-25 4 14 5-2 0 12-1 1-1-2 1 6-2 0 1 4-2 7 4-7 5-24 2 0 5 12-3 4 1 3-4 6-2-1-4 8-6 27 4-5 5 10 6-25 4 22 6-10 6 4-8-33 3-16 2 0 3 28 6-25 5 24 6-12 5 3-3-16 1-5 6 14-5 25 5-5 3 6-7 16 2-3 5 10 4-11 2 0 5 25 5 3-6-28-3-7-6-4 4-24 2-4 2 8 1-12-4-10-4-2-4-16-9-7-4-17-12-32-3-1-3 3-7 17-2 1-4-3-2-7-7-4-8-31-8-22-3-2-3 1-6 13-3 2-4-3-3-10-7-5-9-34-8-20-2-1-3 2-6 13-10 42-8 14-8 38-2 1-3-2-4-19-11-32-3-4-4 1-7 15-9 39-2 1-6 13-1 7-3 3-3 16 3-2 1 3-3 11-4-4 1-2-1 3-2 0-15-56-4-5zM673 283l4-1 2 4-3 2-3-2zM611 278l2 5 3 0 0 10 4-1-3 11-6-11-2-10z"/>
<path fill="#00a5ad" d="M402 498l-2 3 4 14 3 1-1-3 5-6-4-8-3 3zM658 497l-6 10-4 13-3 2-8 34 3-5 6 7 3 18 6-26 5 24 4-18 7-12 6 9-2-9 1-7-2 0 1-4-2-2 1-2-4-12 6-9 2 2-6-9-4 6-2-3-2 1zM599 495l-8 14-8 33-4 5-5 23 2-2 4 5 5-19 2 0 1 6 1-3 2 4 3-15 3-2 2 1 2 5 0 22 5 19 6-21 4 6 5-6 7 9-3-8-2 0 1-3-1 2-1-4 2 0-1-3-1 2-1-1 2-3-5-20 4-5-3-13 1-5-2 0-4-9-4-3-2 1zM730 486l-6 10-8-6-6 11-3 11-4 4-2 10 2-4 1 4-5 20 3 5 6-25 2 0 4 17 5-21 5 23 6-8 6 8-8-42 6-11 5 6zM347 483l-4 4-5 14-4 3-8 32 3-6 3-1 5 13 3 17 4-22 2 0 4 25 4-15 8-9 6 14-9 14 6-6 3 5 6-6 5 20 7-27-1-10-6-12-4-2-6 20-2 0-2-9 1-8-1 2-1-1 1-5-2-2 1-3-4-19 6-7 4 5-8-14-6 6-2-3-1 2zM775 474l-9 17-2 9 1 7 5 8 2 14 6-22 5 23 5-8 6 6-2-9 1-7-1 2-1-1 1-6-6-22-4-7 2 3-2 1zM302 471l-13 21-8 32 5-7 4 8 6-23 5 22 3-15 2-3 6 28 5-5-4-25 2 0 4 8 3 11-8-35-4-2zM317 467l-5 5 4 11 5-6zM398 543l1 6 1-4 2 0 3 14-5 25 6-6 4-14 1 5-2 11 5-13 2 6 1-2 3 5 3-3 5 24 6-17 4 19 1-7 2 0-1 8 6-6 3-8 1 2-1-5 1-1 1 2-1-4 2 0-1-3 2-1 1-7 2 0 1 6 4-9 2 4 3 1 2 9-2 5 4 20 6 9 7-7 6-21-2-5 2-10 4-3 3 2-1 8 2 7 6 10 6-6 3-12 2 0-1 9 3 0 2 12 5 6-3-17 7-7 4 22 6-17 4 18 6-24 3 4 3-10 2 0 0 3 2-6 3 7 4-10 3 3 3 14 5 8-9-31-4-21-3-1 0-3 3-3 3 0-1-6-6-13-7-7-2-10-8-14-6 9-14 54-2 2-1-2-2 6-8-24 2 0 0-3 4-5 3 4-6-11-3 1-2-4-2 1-8-12-5-21-8-15-4 3-5 10-8 35-5 7-5-9-3-1-6-8-1-6-9-15-9 17-10 41-3 0 0 2-3 1-3-17-3 0 0 12-3 1zM510 554l6 1 1 3-3 2-2-1zM788 461l-5 11 4 6 4-9 3-1 4 22 5 4-4-20zM265 445l-4 5-2-4-1 4-8 9-2 8-4 3-7 32 4-6 5 9 5-23 5 23 5-17 4-4 0-3 4-1-2-12-5-9zM855 438l-1 4 3 13 6 6 2 9-5-23zM844 437l-3 1-5 10-3-2 0 5-7 14-3 13-3 1-8 40 4-7 4 4 5-27 2 0 1 7 1-4 1 3 3-8 1 3 2-7 5 23 6-9 7 9 3 12-8-42-2 0-6-16 2-2 1-11 2 0 1 6 1-9zM272 437l-5 6 2 7 3 4 5-6 4 8zM802 434l-6 11 5 7 5-11 6 5-4-8zM286 410l-10 10 4-3 4 11 6-7zM65 384l-7 5 5 37 5-4 4-12-3-23zM42 382l-4 2-4 17-6 8 10-8 5-16zM772 377l-7 12 4 9 6-12 6 4-4-10zM299 364l-9 10 4-1 4 12 6-8 6 8zM358 358l-6 4-4 7 5-2 3 12 6-9zM727 357l4 10 5 3-4-10zM417 343l4 11 5 7-3-11zM579 332l4 12 5 3-4-11zM830 327l-9 19-4 18 3 2-1 4 4 7 3 21-1 1-3-6-6-5-10 18 4-5 4 8 6-12 4 2 2-1 8-35 4-5 6 30 4 2-3-23 2 0 2 5-4-18-6-17-4-2-2-6zM682 327l-5 5-6 12 4-5 5 11 6-12 5 3-4-11zM776 324l-2 0-7 31 6-9 4-18zM1011 320l-2 0-9 22-8 42-4 5-3-2-12-41-8-10-10 21-2 12-8 18-3 2 1 3-3 2-3-2 2-3-11-36-5-10-3-2-10 21-2 14-3 2 0 13-3 4-1-2-4 6 0-9-7-26-4-2-8-21-3-2-3 4-7 23-3 1-4 16 4-5 7 13 1 8-1 1-4-6-1 2-2-1-2-4-2 4 2 2-2 3-1-2-1 3-2 0 1 2-5 9-5 18 6 5 4 0-1-7 5-17 4 21 6-12 7 5 4 16 1-1 1 2-8 37 6 9 3 18 6-30 4 23 6-23 5 20 4 6 6-11 6 4-3-6 1-5-2 0 1-5-2 0 0-11-5-8 1-2 1 1 0-7 7-13 4 19 3 4-3 13 3-7 3 1 7 23 5-24 5 23 6-30 4 20 5 6 4-19 2-1 3 2 7-14 7 14-2-11 4 1 5-13 3-2 3 2 1 9 3-11 3-2 3 2 2 20 4 6 5-29 6 1 5-27-1-12 1-6 3-2 4 2 8 25-1 8 5 14 5 9 7 4-4-6-5-24-4-6-7-35-3-6-6-4-10-38-5-12zM926 410l6 21-4 14-5-23zM877 382l5 26 5-12 7 4 2 5-1 3 2 0-1 5-4 3-8 17-1-3-3 5-3-15-6-16zM793 317l-1 5 3 18 5 3 4 12-9-38zM475 317l-6 4-5 10 5-4 4 13 6-10 6 5-5-12zM252 311l-7 11-2 11-4 4-7 31 2 1-3 1 1 2-7 22 4-3 5 12 6-20 5 25 5-6 6 10-9-41-1 2-2-4 2 0-2-2 3-14 2 4 3 22 4-17 5-9-1-3 3-2 8 13 3 14-9-45-3-1-4-12zM194 309l-7 10-18 62-6 6-8-18-4-2-3 1-6 7-4 11 3 17-5 1-2 4-2-1-4 3-4-15-6 0-7 28-3-11-3-1-4 2-2-3-6 0-5 16 4-4 1 1-3 13 6-22 4 10 4 23 6-6 2-12 4-7 4 29 6-21 4 24 5-16 7-7 4 6-4 14-7 8 5-3 0 5 1-2 3 8 6-7 6-19 4 24 6-22 5 29 5-16 6-9 2 1-2-14 1-8-4-15 2-7 3 0 2-6 5 32 5-6 6 9-1 3 2 0-4 6-7 30 4-5 5 10 6-23 2 8 0-3 2 0 1 8 0-2 3 0 1-4 2 0 4 28 5-5 6 11-2-11 1-9-1 2-1-1 1-7-2-1 1-5-11-33 2-7 3 0 2-6 5 26 5-6 6 10-4-27-7-15 1 2-2 1-3-4 0-5-7 7 2 1-5 10-9 9-1-2-5 6-3-17 2 0 1 7-3-18 5-14 6-7 5 10-3-21 1-7 2 5-3-16-5-8-6-26zM154 400l1 3-2 5 2-2 1 2-6 18-1-2-1 2 0-7-1 2-1-5 2-8zM380 306l1 19 7 12 3 13-4-25-5-19zM312 304l-3 2-3 7-4 2-7 24 1 4-2 0 1 5-1 1-1-2 1 6-3 10 3 0 7-30 7 20 2 20 4-17 5-8 0-5 3-2 2 1-6-30zM738 297l-4 3-4 21 4 11 3 20 5-25 2 0 4 27 5-12 6 3-4-21 1-5 3 8-1-11-3-5-6-2-4 1-4-12zM709 268l0 9-2 1-1 5 4 25 5 3 5 14-3-14 1-7 2 7-2-15 2 0 2 9 4 3-1 3 3-1 2-9-2-4-2 5-3-6-6-2-6-26zM471 266l-3 19-3 1-5 10 3-1 3-5-1 10 5-4 5-25-1-4zM502 264l-2 3-3-1-4 2-6 14 2 6 1-6 2 0 4 30 6-10 7 8 4 15-3-20 1-6 2 8-2-11 1-5-2-1 1-2-7-24zM429 263l-3 2-5 10-4 18-4 5-1 10-1-2 1 6-4 17 5-1 4 11 5-27 2 0 3 24 4-18 5-10-1-4 4-3 7 8 3 14-2-19-7-24-3-1-3-12zM671 248l-4 3 2 13-2 0-1-4-6 0-7 15 2 10 1-8 2 0 4 24 6-12 7 4-5 31 2-8 5-5 5 9 4-29 2 0 1 8 1-4-1-13-3-7-3-1 2-13-3-3-5 0-3-9zM617 247l-4 3-3 12 1 16 5 15 3-2 2-8 2 0-3 15 6-7 3 6-9 35 5-5 4 11 6-25 5 24 5-10 6 3-6-31-4-2-3 1-2 4-3-3 5-9-4-2 3-11 2 8 1-12-5-12-9 0-6-13zM524 246l-3 2-3 7-6 26 4-1 2-6 1 6-2 9 1-3 5-3 3 6-9 35 4-3 5 12 6-25 5 25 5-9 6 4-4-18 1-4-2-2-3-14-2 0-6 7-2-3 0-3 4-5-1-3-3 1 4-14 2 8 1-12-5-12-4 0 0-5zM573 228l-3 13-2 0-2-6 1 12-3 3 1 8-8 0-7 16 2 6 1-6 2 0 4 25 6-11 8 7-4 20 5-3 4 12 6-30 2 4 3 21 6-25 5 30 5-10 6 3-4-22 1-5 6 15 2 11-8-41-4 5-4-2-3 1-3-12-4-3-4 3-2 10-6 0 5-15-4-4-6-1-1-7 4-3 2-12-1-6z"/>
<path fill="#00afa7" d="M587 518l-9 36 3-7 3 1 7 23 5-24 2 0 3 22 4-16 5-7-4-24-6 0-3 7-2-5zM658 497l-8 15-2 14 5 8 2 14 4-17 2-3 6 23 4-7-4-23 1-1 5 7-5-19-4-2zM719 490l-3 0-5 4-6 14-4 18 4-8 4 5 6-22 4 19 6-8 6 7-4-19zM347 490l-3 1-4 10-5 0-2 8 2-3 1 4-5 18 4 8 6-23 2 4 2 17 4-15 5-6-2-17-2-5zM778 474l-3 0-1 3-4 2-6 11-4 21 3-7 5 5 5-23 5 19 6-9 6 7-5-20zM300 470l-8 12-4 15 4-5 4 9 6-19 5 23 5-5 6 11-4-23-7-14zM389 488l-6 14-7 26 6 15 2 17 6-23 2 4 3 21 4-15 7-9 5 11-7 12 6-6 1 1-2 12 1-7 2-3 6 21 5-7 6-19 5 25 6-23 4 16 6-6 1 1-3 23 1-3 1 2-1-5 1-1 1 2-1-4 2 0-1-3 2-1 3-13 4-4 2 5 3 1 3 18 1-1 1 2 3-3 4 19 6-18 3 3 2-9 3 0 2-6 4 15 5-23 5 9 4-5 8 11 2 9 6-7 6-20 4 23 6-23 4 20 5 6 7-22 3-3 3 8 1-4 3 4-4-6 0-5-3-3-2-14 2 0-1-3 3-3 5 9-3-17-10-19-2 2-3-2-2-10-8-14-9 17-11 46-3 0-3 7-7-36-3-2-9-16-5-21-8-15-4 3-5 10-10 40-1-3-4 11-2-6 1-6-2 0-3-8-2 1-4-5-1-6-8-15-4 3-9 24-9 35-1-2-2 2 1 2-2 4-2-8 1-7-1 2-1-1 1-5-2-2 1-3-3-12-3-2-2-9-8-15zM256 449l-8 9-6 19 5-6 4 10 6-18 6 23 5-5 5 10-4-24-6-13zM880 446l-2 1-8 43 4-9 4 5 5-29 2 0 1 6 1-9-3-6zM833 446l1 3-3 6-4 2-3 7-6 24 3-7 5 6 4 19 5-23 7-12 5 24 5 8-3-16 1-7-7-22-4-2-3-5 1-2zM907 438l-4 6 3 18 6 7 4 13-1-14zM847 427l-7 13 3 1 3 6 4 18 6-10 6 4-5-20-3-6zM904 401l-4 3-3 18 6 13 3 1 1-10 2 0 4 24 6-11 5 3-3-16 1-5 2 4-3-12-7-4-4 3-3-10zM227 399l-8 8-7 12 1 2-9 10-1 7-4 4-7 30 3-4 7-26 6 13 3 21 5-15 7-7 6 10-8-33 3-11 8-10 4 6zM860 391l-6 13 2 0 3 6 6-12 5 23 5 3-4-21-4-7zM241 362l-9 9-7 23 4-4 6-21 5 13 5-7 5 7-2-9zM882 348l-1 4 4 17 5 3 4 12-4-20-6-16zM868 347l-10 38 4-7 5 7 5-25 2 0 1 7 1-10-4-8zM830 327l-11 18-6 28 4-7 5 8 6-26 4 22 6-12 6 3-7-29zM1011 320l-2 0-9 22-7 37-2 4-1-2-2 6-3-8-1 1-2-3-9-31-7-10-7 11-6 22-8 16-1-2-1 3-3 1-5-21-3 2-4-2-3 1-7 17 2 6 1-6 2 0 3 23 6-11 8 4-5 28-3 1-4 21 1-4 2 0-4 20 3 6 6-24 2 0 1 7 1-4 1 3 2-16 4-5 3 2 2 8-1 11 5 25 6-25 5 6 5-11 4 2 3 10 5 8-6-16 0-5 2 0 2 8 6 3 6-13 4 23 6-25 5 18 6-31 3 4 4-23 5-2 2-13 3-2 4 2 9 30 3-1-8-40-3-6-6-4-10-38-5-12zM976 422l5 7-2 4-3-1-2-5zM259 319l-8 7-1 8 1 2 1-5 2 0 4 26 5-7 6 8-4-28-3-9zM785 306l-11 18-6 27 5-5 4 9 6-26 4 22 6-12 6 3-4-25zM311 304l-6 5-3 6-5 21 5-2 4 12 6-22 5 27 5-8 6 8-7-36zM370 288l-9 10-6 24 6-2 3 12 6-22 5 26 5-9 6 7-5-32-2-5-2 0zM740 277l-4 7-4 2-3 7-6 28 5-5 4 10 6-26 5 24 3-9 3-3 6 3 4 12-3-22-6-16zM78 277l-8 9-11 44-7 12-15 49 4-5 1 3-1-3 2-1 4-15-1-8 2-7 3-2 3 2 3 8 3 26 1-1 1 2 3-3 4 30 6-16 5 26 5-23 4 9-3 15 6-6 3-9 4 7 6-6 5 26 8-30-1-10 4-5 3 2 3 21 0-3 3 0 1-4 2 0 4 25 5-5-3-16 1-7 4 7 3 12-1 8 7-8 2 4 4-15 3-2 3 2 2 15 0-3 3 0 1-4 2 0 5 30 4-5 6 11-3-24 2 0-6-24 8-21 2-2 2 1-2-18-6-11 2-1 0-7 2-4 2 8 0-3 2 0 1 10 3-10 8-8 8 14 2 11-9-42-3-1-4-14-5-5-5 6-5 16-4 3-5 22-3 5 2 2-3 11-8 10-2-2-7-39-3-1-8-34-6-11-9 10-7 29-6 7-5 19-2 3-1-3-2 7-4-16-3-1-10-52zM151 368l7 13 2 13-4 13-3 1-5 18 0-7-1 2-1-1 1-7-2-1 1-4-5-21 2-4-2-1 0-3zM429 263l-10 11-7 30 1-4 5-4 5 13 5-23 6 26 5-9 6 4-7-34zM487 250l-4 3-2 10-5-2-3 1-2 4 1 4-2 1 1 4-2 2 1 3-4 18 4-2 2 1 3 11 5-28 2 0 3 24 5-23 4-7-3-21zM604 135l-10 23-7 33-5 7-9 24-2 10 3-1 1 3-3 13-3-5-3-1-4-18-12-34-5-2-7 13-8 35-3 1-9 19 3-2 3 1 0 2-2 0 1 5-1 1-1-2 1 6-1 1-1-2 2 9-3 11 3-1 7-28 5 11 3 17-2 1-2-2-5 5-5 10 4-3 5 12 5-11 6 5-4-14 5-21 4 30 5-23 4-7 0-6 3-2 9 4 2 14-2-17 2 0 5 17-1 7 4-2 5-24 5-10 4-2 6 13 3 24 5 4 4 12-3-23-4-10 3-15 4 25 6-25 5 15 4-1-4 16 1 3-1-3 2-1-1-3 2-1 2-8 5-6 3 2 4 25-3 0-4 4-6 13 4-5 5 12 6-12 6 4-5-11 4-21 2 0 4 29 4-25 7-14 5 25 6 5-4-21 2 0 3 9-3-14 1-7 6 18-1 3 5-4 3 1-1 5 4 12 3 21 5-25 2 0 4 28 5-11 6 3-4-26 2 0 3 8-2-13-4-6-11-33-3-1-3 3-6 13-1-2-2 5-2-2-2-7-4-1-3-5-3-1-15-49-3-2-3 1-6 13-3 2-4-3-3-10-7-5-15-51-2-3zM679 260l3 2-2 9-2-7zM575 260l5 3-3 9-2-4z"/>
<path fill="#00baa2" d="M524 529l-2 1-7 26 3-3 4 5 5-18 2 0 1 5 1-8-3-6zM420 522l-7 19 0 5-4 5 3 7 7-7 5-18 2 0 1 5 1-3-1-7zM552 503l-1 8 4 17-8 7-1 7 1 2 1-5 2 0 4 20 5 5 4-6 2 2-9-42 2-7zM660 496l-4 4-3 0-6 14-3 14 2-5 5 6 6-22 4 19 6-7 6 8-5-19zM599 495l-8 14-1 6-4 4-2 8 2-4 1 3-5 20 4 5 6-25 5 19 6-21 5 24 5-6 6 9 0-8-1 2-1-1 1-7-7-29zM716 486l-5 8 4 7 6-9 2 2zM392 485l-3 3-6 15-3 2-8 32 3-6 5 6 6-23 4 21 4-15 2-3 6 26 4-5-4-25 2 0 5 10-4-15-3-1-1-7zM345 482l-8 12-4 15 4-6 4 9 6-19 5 22 5-5 6 11-4-22-7-13zM775 470l-5 9 3 7 6-10 5 5zM303 467l-4 5 3 9 6-5zM482 463l-9 16-11 47-3 0 0 3-3 1-3-15 2-7-7-10-1 6 4 11 0 11-8 6-1 7 1 2 1-5 2 0 3 11-5 24 6-6 5-16 1 7-2 12 3-7 3-3 7 29 6-7 2-6-1-7 5-7 4 5 0 17 5 6 6-26-1-7 3-8 4 0 4 8 2-4 2 2 4 15 5 6-6-25-9-19 1-3 2 4 0-8 6 10-3-18-8-15-2 1-2-2-5-21zM837 449l-3 0-2 4-4 2-7 25 4 6 7-23 4 18 6-10 6 6-5-19zM259 446l-5 5 3 11 6-6 1 1zM214 417l-11 11-5 19 4-5 5 10 5-18 6 25 5-5-4-22 1-1 3 5zM1042 398l-3 1-2 9 6 22 5 8-2-9 5 0-5-29zM1035 394l-6 0-5 8-4-2-4 3-3 19 2 9 4 6 5-24 2-2 3 2 2-15 2-1 2 5zM47 361l-5 4-5 26 6-8 6-21zM60 356l-6 4 5 33 5-5 3-9-2-17-2-5zM874 337l-4 5-4 11 2-3 6 10 3 20 6-12 6 2-5-22-4-8zM966 336l-7 11-6 22-8 18-3 0-4 10-3-14 1-6 2 7-2-14-7-20-3-1-6-8-3 7-4 2-6 15-5 26 2 2-4 2-6 17-3 1 1 4-2 4-4 2-5 11-5 21 4-6 2 2 7 23 6-24 4 23 6-10 6 5-3-12 1-6 2 7-2-12-9-28 4-13 4 19 6-11 7 5 3 10-7-26 4-18 7-14 5 27 4 2 1 5 2 0-4 6-7 39 3-7 6 7 3 18 6-31 5 24 6-25 4 18 6-11 5 8 5 3-6-13 1-4 1 3 1-5-2 0 0-10-4-3-2-9 1-2 2 4-1-8 2-4 5 19 5-11 4 1-1 3 1-1 1 3-3 2-1 11-3 5 5 6 6-13 4 18 5-24 2 0 1 7 1-14-5-17-3-1-3 1-2 5-2-8-1 2-1-1 1-4-5-6 1-6-7-24-5-12zM830 325l-8 13 6 9 6-13 5 3-4-9zM195 309l-8 9-2 0-6 20 1 2-2 2 1 2-2 1 1 3-2 1 1 4-6 10-4 14 1 5-7 8-2 8-5 6-7 29 4-5 5 11 6-23 4 24 5-16 7-7 6 11-4-23-5-15 6-19 2 4 3 21 5-5 6 10-4-23 4-19 8-11 6 9-8-40-3-1zM184 334l7 20 1 17-5-12-1 3-4-6 1-4-3-1zM254 308l-5 3-6 10-5 20 6-2 3 13 4-19 8-11 6 8-4-12zM785 304l-4 4-6 14 3-4 5 10 6-14 6 3-5-10zM309 303l-5 9 4-1 4 12 5-8 6 7-6-16-4-5zM137 297l-9 10-6 26-7 10-10 35-3 2-2-4-6-1-3-19-4-3-3 1-7 21 2 8 1-6 2 0 3 24 6-17 5 14 2 1-2 6-6 6 11-10 4 12 6-18 5 25 4-22 2 0 4 29 5-16 7-7 5 10-3-24 2 0 0 3-1-6 3-9 7-8 6 10-3-16 1-6 2 8-2-19-6-13-6-26zM371 285l-5 4-4 7 4 0 4 13 6-10 6 6-5-13zM739 275l-10 18 5-5 4 11 6-13 5 26 5 2-4-25-5-11zM430 261l-6 3-5 10-5 25 3-2 7-26 4 14 6-11 6 6-4-14zM586 250l-5 6-6 27 5-3 4 12 6-25 5 25 5-11 6 4-4-28-3-6-6 0-2 4-2-4zM695 239l-11 15-6 28 5-5 4 11 6-26 5 25 6-12 6 4 5 14-4-25-6-17-7-11zM482 235l-7 15-4 19 5-5 5 13 6-24 4 25 6-9 7 6 4 13-3-20-8-28-4-3-3 1-2 4-3-6zM580 200l-3 4-6 27 3 0 3-11 2 0-5 27 2 0 6-13 2 5 1-2-1-4-3-1 5-21-3-3 0-7zM650 191l-3 2-5 11-3 1-2-3-6 0-1 14-2-5-3-1-4 3 3 20-3 1-1 5 1 1 1-3 2 0 3 13 2 1-4 24 2-8 5-4 5 12 5-30 2 0 1 9 1-6 2 6 0-4 3 0 2-7 5 30 6-11 6 4 5 14-3-20 2 0 1 6-8-42-5-6-8-25zM633 220l3 1 0 7-4-1zM545 187l-7 13-4 19-4 4-9 47 3-11 5-3 5 11 4-28 2 0 1 8 0-3 2 0 1 8 1-6 3 0 2-7 5 31 5-10 7 5 4 12-2-12 1-7 2 7-1-17-2-2-5-24-5-6-9-27z"/>
<path fill="#00c59d" d="M601 494l-5 2-3 4-9 27 4-8 4 6 6-21 5 19 5-6 6 9-4-20zM658 493l-5 7 4 7 5-9zM390 484l-7 11-5 17 3-6 5 7 6-18 5 21 5-5 6 11-5-23-6-12zM541 483l-6 9-3 11-3 0-9 35 4-6 2 2 7 23 5-24 5 24 4-16 8-10 5 10-6-34zM348 479l-5 5 4 9 5-5zM482 463l-8 13-11 47-2 4-1-2-2 6-3-1 1-4-2-2 1-3-5-21-3-1-9-20-4 3-6 17-3 0-8 32 3-6 5 6 4 20 6-23 5 25 3-15 8-9 3 4-3 11 5-2-3 14 1-6 2 0-2 18 5-19 3 13 6-6 5 23 6-17 4 18 6-23 4 6 5-15 4 12 5-9-1-8 5 6-5-10-5-37-3-6-3-1-4-17zM833 446l-5 9 4 7 6-11 4 5zM214 417l-5 5 3 11 6-5zM895 415l-2 0-7 8-6 25 3 6 7-24 5 19 6-11 5 4-4-19zM956 393l-7 14 2 8 1-6 2 0 4 23 6-11 6 4 4 13 1-5-2 0 1-5-2-2 1-3-7-27-7-4zM905 385l-6 12 5 6 6-12 5 22 5 3-5-20-4-8zM182 351l-10 10-5 19-8 9-6 19 4-5 5 12 6-19 5 26 5-5-4-23 1-1 3 5-3-9-3-1-3-5 2-2-1-3 5-18 2-3 4 13 6-6 5 8zM920 341l-5 10 0 5 4 9 3 16 6-12 6 2-7-25zM875 337l3 7 6 4-4-8zM1011 320l-2 0-9 22-9 42-1-4-2 10-8-31-7-2-5 3-3-9-6 0-5 19 0 6 6 14 4 1 2-15 2 0 3 22 6-11 7 4 3 9-5 25 3-6 5 5 4-25 2 0 8 42 6-30 5 18 5-26 3 4 6-11 1 3 2-3 6 14 5 6-2-14 6 2-8-25-8-3-10-38-5-12zM190 310l-5 8-5 19 5-2 4 13 4-18 5-7-5-12zM78 277l-8 9-12 47-8 8-9 28 6-5 0 5 4-14 2 5 2-1 2 3 3-3 5 26 6-18 4 30 9-32-1-3 4-6 5 27 5-5 4 8 6-5 4 12 5-22 2 0 1 7 0-3 2 0 1 10 2-8 9-7 7 13 2 10-7-31 4-15 7-11 7 12 4 14-9-43-3-1-5-16-3-5-8 8-3 13-3 1-6 18 2 1-4 5-2 9-4 3-6 20 0-11-1 2-1-1 1-7-2-1 1-4-5-25-3-1-5-27zM740 275l4 10 6 4-5-11zM429 261l-5 3-4 9 4-2zM700 245l-3 1-1 6 3-4 5 25 1 3 4 2-4-27-2-5zM489 230l-3 0-2 5-3 1-3 5-6 26 3-2 7-27 5 7 5-6 7 8-4-13zM545 208l-4 3-4 16 7 37 5-25 4-7-5-23zM555 202l-1 5 3 20 5 4 4 13-3-25-6-17zM606 134l-3 2-6 13-10 42-4 0-6 13 3-1 1 2-4 17 0-2 2 0-2 9 1 6-2 1 6-2 4 11-5 11 6-2 3 12 6-13 6 4-6-14 6-26 5 30 6-25 4 25 6-11 6 3-4-19 1-4 7 19-2 7 2-8 6-5 2 1 6 38 5-25 4-8-1-4 4-4 6 3-3-15-7-20-5-4-3 2-6 16-3 0-1 8-2 0-2-12 4 1-4-13-9-7-11-40-4-10zM592 221l4 21-5-1-3 2-1-4z"/>
<path fill="#00cf97" d="M599 491l-4 6 3 7 5-7zM541 483l-8 14-2 12 5 8 2 14 4-16 2-3 6 25 5-6-4-22 2 0 3 6-3-12-3-1zM393 481l-5 5 4 9 5-6zM438 479l-4 3-11 23 1-1 1 3-5 18 4 5 7-23 2 4 2 15 5-17 4-4 0-3 4-1zM483 463l-4 3-5 10-8 35-4 4-3 14-6 7-4 9 15-9 4 18 6-18 5 24 5-23 5 19 6-19 4 6 5-4 7 10-6-11 1-2-2-1 1-5-3-15-4-6-6-28zM892 412l-6 11 4 6 5-11 4 1zM169 378l-5 5 3 10 2 2 4-5 5 9-2-8zM1029 363l-2 0-2 4-6 0-7 15 2 8 1-6 2 0 3 19 5 6 7-13 5 3-1-8 1-1 2 3-3-11 5 1-2-4-6-4zM996 357l-3 6-6 36 4-7 6 10 3 15 5-31 2 0 1 9 1-15-5-17zM961 344l-3 0-5 12-4 15 1 4-6 6-9 33 3-6 5 6 4 19 5-25 7-13 5 26 5 3-3-15 1-5 2 4-9-28-4-2 2-2-1-5 4-17 2 0 1 6 1-9zM972 342l-1 4 3 15 5 3 4 12-3-17-5-14zM129 341l-9 7-4 11-2-4-5 0-7 28 4-1 6-26 7 19 2 19 5-16 7-7 6 11-4-23zM920 339l-9 15 2-2 4 8 5-12 2-1 4 2-3-7zM192 308l-5 7 4-1 4 12 6-7 4 8-2-10-6-10zM137 297l-7 7-3 0-5 20 6-4 2 6 1-5 2-2 1 2 2-6 6 28 5-6 5 10-7-40-5-4zM78 277l-8 9-9 35-9 17 2 0-2 7-6 8 5 0-1 2 5 9 5-6 5-18 2 0 1 5 0-2 2 0 1 10 1-4 3 0 2-7 4 30 5-15 7-7 6 9-5-40-4-6-6-25zM695 236l-5 5-6 13 5-4 4 11 6-13 6 3-5-12zM488 227l-4 2-6 12 5-2 4 13 6-12 5 5-4-13zM545 187l-9 12-6 27 6-2 3 12 6-25 5 26 6-11 5 4-5-31-4-4-2-6zM611 173l-7 17 2 6 1-6 2 0 4 29 6-11 6 4 5 15-3-20 1-6 2 9-2-11 1-6 4 10 6 4-5 26 4-3 5 12 5-26 5 25 7-12 6 4 3 11-5-30-4-12-4-3-2-6-3-2-3 1-9 13-5-12-7-5-3-12-5 1-2-4zM593 171l-3 1-3 5-2 13-8 14 3-1 2-5-1 17 1-5 5-3 5 12 5-30 2 0 1 9 1-14-5-12z"/>
<path fill="#00da92" d="M538 484l-5 7-5 17 1-2 5 6 6-20 5 19 5-6 6 11-4-17-6-13-3-3zM435 478l-7 11-5 17 3-6 5 5 5-18 6 20 5-5 6 11-4-17-9-17zM482 463l-8 13-7 30-3 1-1 11-2 1 1 2-3 8 5 6 6-19 4 18 6-23 4 23 6-17 6 19 5-5-4-13 1-4 7 16-6-30-3 0-5-22zM951 372l-4 8 0 5 4 7 2 14 6-11 6 4-8-25zM964 333l-7 14 3 1 3 6 4 19 5-12 6 1-4-19-4-6zM124 331l-10 9-6 19 5-2 4 12 5-18 7-7 4 8-2-8zM1011 320l-2 0-9 22-2 12-4 5-1 7 2-4 1 6-5 23 4 5 6-31 2 7 0-2 2 0-1 6 4 14 2 18 5-25 7-14 2 4 3 16 5 3-3-12 1-3 3 8-7-38-4-4-4-13zM138 295l-5 2-6 7-5 19 5-1 3 13 4-17 8-10 5 8-2-9zM78 277l-7 7-5 17-3 1-4 15 1 5-2 1-7 23 5-3 6-19 6 19 3 22 10-41 2 0 5 31 5-5-5-32 2 0 5 10 2 10-7-38-3-1-3-11zM646 191l-7 14 6-2 3 12 7-13 6 4 2 6-8-21-4-2zM547 184l-5 3-5 10 5 0 3 13 6-12 6 4-5-14zM606 134l-3 2-6 13-6 23-3 1-2 11 0-2 2 0-5 26 3 0 7-34 7 19 2 21 5-25 7-14 5 33 5 3-3-21 1-8 5 12 3 16-9-44-3-1-8-27z"/>
<path fill="#00e48d" d="M492 481l-8 7-1 8 2-4 2 0 4 24 5-5 6 11 0-7-2 0 1-5-2 0 1-5-2-1 1-4-5-19zM471 481l-9 35 3-7 5 5 4-22 2 0 1 6 1-9-3-6zM541 480l-5 6 4 6 5-6zM438 475l-5 5 3 7 5-5zM950 369l-6 12 5 6 5-12 5 3-2-4zM124 331l-8 7 3-1 4 12 6-5zM1003 330l-5 11-5 25 4-7 6 10 3 14 5-25 2 0 4 22 5-11 6 3-3-17 1-1 2 3-3-14-7-3-5 3-3-8zM78 277l-7 7-3 11-4 3-7 28 6-1 3 12 6-23 5 26 3-14 8-10 6 11-4-28-4-12-4-2zM651 189l3 12 6 4-4-13zM546 185l-4 2-6 12 4-2zM606 134l-11 14-9 36 2-7 5-3 5 12 6-26 4 26 7-11 6 3 4 12-2-9 1-5-2-1-6-27-3 0-3-10z"/>
<path fill="#00ef87" d="M480 462l-8 13-4 15 3-6 6 11 3 15 5-18 7-7 4 7-2-12-9-17zM1014 320l-5 0-2 7-4 3 0 4-2 0 1 4-5 20 3 5 7-26 5 19 3-10 3-3 6 4 4 12-5-22zM78 277l-4 1-5 5-6 19 6-2 3 13 6-19 5 28 5-6-4-26 2 0 3 6-3-9-4-2zM606 134l-3 2-3 8-3 0-2 4-6 28 3-1 6-28 1-1 2 5 2-1 1 2 1-2 2 1 2-5 5 27 2 3 4 1-4-19 1-4 2 5-7-22z"/>
<path fill="#00fa82" d="M483 459l-5 5 3 7 5-5zM1009 317l-7 15 1-1 4 5 5-12 2-1 4 2zM79 274l-9 8 4-1 4 12 6-5 5 9zM606 132l-5 3-6 13 5-1 4 12 5-13 6 3-4-14z"/>
</g>
<g font-size="8.6" fill="#262626">
<text x="162.6" y="686.2" text-anchor="middle" font-size="8.2">Function Topology</text>
<text x="27.9" y="844.3" text-anchor="end">0</text>
<text x="27.9" y="821.9" text-anchor="end">20</text>
<text x="27.9" y="799.4" text-anchor="end">40</text>
<text x="27.9" y="777" text-anchor="end">60</text>
<text x="27.9" y="754.6" text-anchor="end">80</text>
<text x="27.9" y="732.1" text-anchor="end">100</text>
<text x="139.5" y="904.7" text-anchor="end">-5</text>
<text x="83.4" y="879" text-anchor="end">0</text>
<text x="27.4" y="853.3" text-anchor="end">5</text>
<text x="150.5" y="905.5">-5</text>
<text x="223.5" y="885.8">0</text>
<text x="296.5" y="866.1">5</text>
<text x="83.4" y="908.6" text-anchor="middle">x<tspan font-size="6.7" dy="2.6">2</tspan></text>
<text x="214.5" y="911.6" text-anchor="middle">x<tspan font-size="6.7" dy="2.6">1</tspan></text>
<text transform="translate(8.5,787.2) rotate(-90)" text-anchor="middle" xml:space="preserve">F9( x<tspan font-size="6.7" dy="2.6">1</tspan><tspan dy="-2.6"> , x</tspan><tspan font-size="6.7" dy="2.6">2</tspan><tspan dy="-2.6"> )</tspan></text>
</g>
<g font-family="Liberation Serif, Times New Roman, serif" fill="#000" stroke="#000" stroke-width=".5">
<text transform="translate(112.8 960.8) scale(.875 1)" font-size="46" font-style="italic">F</text>
<text transform="translate(135.5 970.5) scale(1.15 1)" font-size="31.3">9</text>
</g>
</g>
<g id="f10">
<path d="M503.7 896L391.8 844.6M391.8 844.6L391.8 732.4M540.2 886.1L428.3 834.8M428.3 834.8L428.3 722.6M576.7 876.3L464.7 824.9M464.7 824.9L464.7 712.7M613.1 866.4L501.2 815M501.2 815L501.2 702.9M649.6 856.6L537.7 805.2M537.7 805.2L537.7 693M503.7 896L649.6 856.6M649.6 856.6L649.6 744.4M475.7 883.2L621.6 843.7M621.6 843.7L621.6 731.5M447.8 870.3L593.6 830.9M593.6 830.9L593.6 718.7M419.8 857.5L565.7 818M565.7 818L565.7 705.8M391.8 844.6L537.7 805.2M537.7 805.2L537.7 693M391.8 844.6L537.7 805.2M537.7 805.2L649.6 856.6M391.8 822.2L537.7 782.7M537.7 782.7L649.6 834.1M391.8 799.7L537.7 760.3M537.7 760.3L649.6 811.7M391.8 777.3L537.7 737.9M537.7 737.9L649.6 789.3M391.8 754.9L537.7 715.4M537.7 715.4L649.6 766.8M391.8 732.4L537.7 693M537.7 693L649.6 744.4" fill="none" stroke="#444" stroke-width="0.6" stroke-dasharray="0.7 2.6"/>
<defs>
<clipPath id="f10z0"><path clip-rule="evenodd" d="M17.45 0a17.45 17.45 0 1 0 -34.9 0a17.45 17.45 0 1 0 34.9 0zM20 0a20 20 0 1 0 -40 0a20 20 0 1 0 40 0z"/></clipPath>
<clipPath id="f10z1"><path clip-rule="evenodd" d="M20 0a20 20 0 1 0 -40 0a20 20 0 1 0 40 0zM23.5 0a23.5 23.5 0 1 0 -47.0 0a23.5 23.5 0 1 0 47.0 0z"/></clipPath>
<clipPath id="f10z2"><path clip-rule="evenodd" d="M23.5 0a23.5 23.5 0 1 0 -47.0 0a23.5 23.5 0 1 0 47.0 0zM40 0a40 40 0 1 0 -80 0a40 40 0 1 0 80 0z"/></clipPath>
</defs>
<g transform="matrix(3.6468 -0.9857 -2.7982 -1.2846 520.70 850.59)" fill="none" stroke="#00e88b">
<path clip-path="url(#f10z0)" stroke-width="0.68" stroke-dasharray="0.72 0.28" stroke-dashoffset="0.36" d="M-20 -20h40M-20 -19h40M-20 -18h40M-20 -17h40M-20 -16h40M-20 -15h40M-20 -14h40M-20 -13h40M-20 -12h40M-20 -11h40M-20 -10h40M-20 -9h40M-20 -8h40M-20 -7h40M-20 -6h40M-20 -5h40M-20 -4h40M-20 -3h40M-20 -2h40M-20 -1h40M-20 0h40M-20 1h40M-20 2h40M-20 3h40M-20 4h40M-20 5h40M-20 6h40M-20 7h40M-20 8h40M-20 9h40M-20 10h40M-20 11h40M-20 12h40M-20 13h40M-20 14h40M-20 15h40M-20 16h40M-20 17h40M-20 18h40M-20 19h40M-20 20h40"/>
<path clip-path="url(#f10z1)" stroke-width="0.44" stroke-dasharray="0.47 0.53" stroke-dashoffset="0.235" d="M-20 -20h40M-20 -19h40M-20 -18h40M-20 -17h40M-20 -16h40M-20 -15h40M-20 -14h40M-20 -13h40M-20 -12h40M-20 -11h40M-20 -10h40M-20 -9h40M-20 -8h40M-20 -7h40M-20 -6h40M-20 -5h40M-20 -4h40M-20 -3h40M-20 -2h40M-20 -1h40M-20 0h40M-20 1h40M-20 2h40M-20 3h40M-20 4h40M-20 5h40M-20 6h40M-20 7h40M-20 8h40M-20 9h40M-20 10h40M-20 11h40M-20 12h40M-20 13h40M-20 14h40M-20 15h40M-20 16h40M-20 17h40M-20 18h40M-20 19h40M-20 20h40"/>
<path clip-path="url(#f10z2)" stroke-width="0.26" stroke-dasharray="0.27 0.73" stroke-dashoffset="0.135" d="M-20 -20h40M-20 -19h40M-20 -18h40M-20 -17h40M-20 -16h40M-20 -15h40M-20 -14h40M-20 -13h40M-20 -12h40M-20 -11h40M-20 -10h40M-20 -9h40M-20 -8h40M-20 -7h40M-20 -6h40M-20 -5h40M-20 -4h40M-20 -3h40M-20 -2h40M-20 -1h40M-20 0h40M-20 1h40M-20 2h40M-20 3h40M-20 4h40M-20 5h40M-20 6h40M-20 7h40M-20 8h40M-20 9h40M-20 10h40M-20 11h40M-20 12h40M-20 13h40M-20 14h40M-20 15h40M-20 16h40M-20 17h40M-20 18h40M-20 19h40M-20 20h40"/>
</g>
<g transform="scale(.1)" fill="none" stroke-width="9">
<path stroke="#003ae2" d="M5263 8532l-2-1 2 1M5206 8532l-17-1-8-8-25-3-3-10-20-4 2-6 23-3 10-9 26-1 14-7 17 1 8 8 25 3 3 9 20 5-2 6-23 3-10 9-26 1-14 7M5135 8526l1-1-1 1M5280 8486l-2 1 2-1M5153 8481l-3-1 3 1"/>
<path stroke="#0074c5" d="M5250 8579l-9 0-3-6 16 2-4 4M5289 8570l-17 0-8-8-21 1-13 7-29-1-18-7-17 5-28-2-8-8-19-2-14 7-17-1-1-8 21-3-11-5-17 5-21-2-1-8 20-4-11-5-15 6-19-2 0-6 23-3-2-7-20-5 3-10 20-6-15-6 4-10 23-3 7-7-20-5 4-6 20 0 10 7 15-4-16-6 6-7 22 0 13 7 14-4-18-6 7-6 17 0 8 8 21-1 13-7 29 1 18 7 17-5 28 2 8 8 19 2 14-7 17 1 1 7-21 4 11 5 17-5 21 2 1 7-20 5 11 5 15-6 19 2 0 6-23 3 2 7 20 5-3 10-20 6 15 6-4 10-23 3-7 7 20 5-4 5-20 1-10-7-15 4 16 6-6 7-22 0-13-7-14 4 18 6-7 6M5396 8539l-12 1-1-6 14 2-1 3M5188 8577l-14-1-4-7 27 1-9 7M5406 8518l-21 1 4-9 19 3-2 5M5121 8573l-9-1-1-4 17 0-7 5M5413 8494l-15 1 5-6 11 2-1 3M5011 8523l-11-2 1-3 15-1-5 6M5303 8444l-17 0 7-5 9 1 1 4M5025 8502l-19-3 2-5 21-1-4 9M5244 8443l-27-1 9-7 14 1 4 7M5031 8478l-14-2 1-3 12-1 1 6M5176 8439l-16-2 4-4 9 0 3 6"/>
<path stroke="#00aea8" d="M5351 8652l-4-2 4 2M5389 8643l-7-1-1-3 10 1-2 3M5426 8633l-9 0-1-4 12 1-2 3M5463 8623l-10 0-1-4 13 1-2 3M5499 8613l-10 0 0-4 12 1-2 3M5535 8603l-8 0 0-3 9 1-1 2M5570 8593l-4-2 4 2M5250 8659l-4-2 4 2M5289 8650l-10 0-1-5 15 1-4 4M5328 8641l-16 0-1-8 22 2-5 6M5366 8632l-20 0-2-10 28 3-6 7M5403 8623l-23-1-3-9-22 1-11 8-29 0-10 9-29-1-8-8-11 0-10 6 27 3-8 9-22-1-3-10-27 0-10 8-26-1-5-9-23-1-11 8-25-1-4-9-27-2-9 9-22-1-1-10 28 0-6-6-10-1-14 7-29-2-3-10-27-3-5-8-21-3-10 9-23-2 1-9 26-1-3-7-17-2-11 8-24-2 1-9 25-1-2-6-18-3-10 8-24-2 1-8 27-1-2-8-23-4-1-10-25-3 3-11 22-3 0-3-16-4-8 10-25-3 2-8 27-1 2-10-25-3 3-9 26-2 3-8-24-4 4-9 26-1 6-10-26-3 4-8 26 0 1 10 18-2 3-4-20-5 6-10 26-1 8-10 26-1 7-8-25-3 6-8 24 0 3 9 19-1 7-6-23-4 6-8 24 0 5 9 18-1 8-6-25-4 7-8 23 0 3 10 22-1 11-8 29 0 10-9 29 1 8 8 11 0 10-6-27-3 8-9 22 1 3 10 27 0 10-8 26 1 5 9 23 1 11-9 25 2 4 9 27 2 9-9 22 1 1 10-28 0 6 6 10 1 14-7 29 2 3 10 27 2 5 9 21 3 10-9 23 2-1 9-26 1 3 6 17 3 11-8 24 2-1 8-25 2 2 6 18 3 10-8 24 2-1 8-27 1 2 8 23 4 1 10 25 3-3 11-22 2 0 4 16 4 8-10 25 3-2 8-27 1-2 10 25 3-3 9-26 2-3 8 24 4-4 9-26 1-6 10 26 3-4 8-26 0-1-10-18 2-3 4 20 5-6 10-26 1-8 9-26 2-7 7 25 4-6 8-24 0-3-9-19 1-7 6 23 4-6 8-24 0-5-9-18 1-8 6 25 3-7 9M5512 8593l-22 0 0-10 26 3-4 7M5547 8582l-18 0 1-8 20 3-3 5M5581 8571l-12 0 1-5 13 2-2 3M5615 8560l-5 0 5 0M5187 8656l-7 0 0-3 9 1-2 2M5227 8648l-15-1-1-6 21 1-5 6M5592 8549l-18 1 2-8 18 2-2 5M5625 8538l-9 0 1-3 9 1-1 2M5123 8653l-7 0 0-3 9 1-2 2M5163 8645l-16 0-1-7 23 1-6 6M5601 8527l-20 0 3-8 19 2-2 6M5633 8515l-8 0 1-3 8 1-1 2M5195 8621l4 1-4-1M5524 8532l3 0-3 0M5057 8650l-4-2 4 2M5098 8642l-15-1 0-6 21 1-6 6M5609 8504l-19 0 3-7 17 2-1 5M5641 8492l-6 0 6 0M5130 8619l4 0-4 0M5533 8510l3-1-3 1M5032 8638l-11 0 0-5 15 1-4 4M5615 8481l-13 0 3-5 11 1-1 4M4964 8634l-3-2 3 2M5006 8627l-15-1 0-7 22 1-7 7M5590 8469l-21 0 5-7 17 1-1 6M5621 8457l-5 0 5 0M4938 8622l-7-3 10 0-3 3M4981 8615l-20-2 0-7 28 0-8 9M5564 8457l-27 1 7-10 21 2-1 7M5594 8444l-9 0 3-3 6 3M4911 8610l-9-1 0-4 13 0-4 5M5568 8432l-13 0 4-4 9 1 0 3M4884 8597l-10-1 0-4 13 0-3 5M5540 8419l-13 0 3-4 10 1 0 3M4855 8584l-9-1 0-3 13 0-4 4M5512 8406l-13 0 4-4 9 1 0 3M4826 8571l-6-4 9 0-3 4M4870 8564l-21-2 1-7 27-1-7 10M5453 8406l-28 0 8-9 20 2 0 7M5483 8393l-10 0 3-3 7 3M4797 8557l-4-2 4 2M4840 8550l-17-1 1-6 21 0-5 7M5423 8392l-22 0 7-7 15 1 0 6M5453 8380l-5-1 5 1M4809 8536l-11-1 1-4 13 0-3 5M5393 8378l-15 0 4-4 11 0 0 4M4878 8503l3-1-3 1M5281 8394l3-1-3 1M4778 8522l-5-1 5 1M4821 8515l-17-2 1-5 19-1-3 8M5331 8377l-21-1 6-6 15 0 0 7M5361 8364l-6 0 6 0M4887 8480l3-1-3 1M5217 8391l2-1-2 1M4788 8500l-8-1 9-3-1 4M4830 8493l-19-3 2-5 20-1-3 9M5268 8374l-23-1 6-7 16 1 1 7M5298 8362l-9-1 2-3 7 1 0 3M4797 8477l-9-1 10-2-1 3M4838 8470l-18-2 2-6 18 0-2 8M5203 8371l-21-1 5-6 15 0 1 7M5234 8359l-9-1 9-2 0 3M4803 8454l-5-1 5 1M4844 8446l-13-2 2-3 12 0-1 5M4884 8437l-20-2 3-5 18 0-1 7M4924 8429l-26-3 4-7 22 0 0 10M5070 8390l-28-3 6-7 20 0 2 10M5103 8378l-22-1 5-6 16 0 1 7M5136 8367l-15-1 4-4 10 0 1 5M5168 8355l-6 0 6 0M4848 8421l-5-1 5 1M4887 8412l-9-1 9-2 0 3M4925 8403l-12-1 2-4 10 1 0 4M4962 8393l-13-1 2-4 10 1 1 4M4998 8383l-12-1 2-3 9 0 1 4M5033 8373l-10-1 9-3 1 4M5067 8362l-5-1 5 1"/>
<path stroke="#00e88b" d="M5513 8779l-30-1 3-11-30 0-6 10-32-1-6 10-30-1 1-10-27-1-7 10-32-1-5 10-31-1 2-11-29-1-6 11-32-2 0-10-25-1-7 10-33-2 0-10-24-1-8 10 32 1-5 11-29-1 2-11-32-2-6 11-29-1 3-11 32 1-1-10-24-1-7 10-32-2 0-10-26-1-7 10-31-2 1-10-28-2-7 10-30-1 2-11-31-2 0-10-27-2-6 11-31-2 3-11-31-1 1-11-29-2-6 11-29-2 2-10 32 1 0-10-26-2-6 10-31-2 3-11 30 1 0-9-23-1-7 9-31-1 2-11-31-2 2-11-30-2 2-11-30-2 2-10-30-3 2-10-30-2 3-11-30-2 3-11 29 0 2-9-24-2-7 11-31-2 4-11 29 0 2-9-27-2-5 10-30-1 3-11 31 1 2-10-29-3 3-11-30-2 3-10 30 0 3-10-29-2 3-11-30-2 4-11 30 1 3-10-29-3 4-11 29 0 3-9-28-2 4-12 29 0 3-8-27-3-5 11-30-2 3-10 31 1 4-11-30-2 4-11 31 1-4 12 28-1 4-8-28-3 4-11 29 0 4-9-28-3 4-11 30 1 4-10-29-2 4-11 31 1 5-11 29 0 5-10-29-2 4-11 31 1 5-11 30 1 5-11-30-2 4-10 31 1-3 11 28 0 5-9-29-2 4-11 32 1-2 11 25 0 5-8-28-3 5-11 30 1 6-11 30 1 6-11 30 1 7-11 30 1 6-11 31 1 6-10 31 1 5-11 32 1 0 10 23 1 6-9-29-2 5-11 31 1-1 11 26 0 7-9-31-2 5-10 30 1-3 10 30 1 6-10 32 1 6-11 30 2-1 10 27 1 7-10 32 1 5-10 31 1-2 10 29 1 6-10 32 2 0 10 25 1 7-10 33 2 0 10 24 1 8-10-32-1 5-11 29 1-2 11 32 1 6-10 29 1-3 11-32-1 1 10 24 1 7-10 32 2 0 10 26 1 7-10 31 2-1 10 28 2 7-11 30 2-2 11 31 1 0 11 27 1 6-10 31 2-3 11 31 1-1 11 29 2 6-11 29 2-2 10-32-1 0 10 26 2 6-10 31 1-3 11-30 0 0 9 23 1 7-10 31 2-2 11 31 2-2 11 30 2-2 10 30 3-2 10 30 2-2 11 30 2-3 11 30 2-3 11-29 0-2 9 24 2 7-11 31 2-4 11-29 0-2 9 27 2 5-11 30 2-3 11-31-1-2 10 29 2-3 12 30 2-3 10-30 0-3 9 29 3-3 11 30 2-4 11-30-1-3 10 29 3-4 11-29 0-3 9 28 2-4 12-29 0-3 8 27 3 5-11 30 1-3 11-31-1-4 11 30 2-4 10-31 0 4-12-28 0-4 9 28 3-4 11-29 0-4 9 28 2-4 11-30 0-4 10 29 2-4 11-31-1-5 11-29 0-5 9 29 3-4 10-31 0-5 11-30-1-5 10 30 2-4 11-31-1 3-11-28 0-5 9 29 2-4 11-32-1 2-11-25 0-5 8 28 3-5 11-30-1-6 11-30-1-6 11-30-1-7 11-30-1-6 10-31 0-6 10-31-1-5 11-32-1 0-10-23-1-6 9 29 2-5 11-31-1 1-11-26-1-7 10 31 2-5 10M5564 8746l26 2 1-9-22 0-5 7M5601 8736l25 2 0-9-20 0-5 7M5638 8726l24 2 0-8-19-1-5 7M5675 8716l24 2 0-8-20 0-4 6M5711 8706l24 3 1-9-20 0-5 6M5747 8697l26 2 1-9-23-1-4 8M5388 8773l29 2 0-9-22-1-7 8M5428 8763l23 1 0-8-18 0-5 7M5467 8752l18 1 0-6-14 0-4 5M5506 8741l14 2 0-5-11 0-3 3M5544 8731l11 1 0-4-11 3M5582 8721l8 1 0-3-8 2M5619 8711l7-2-7 2M5656 8701l6-2-6 2M5691 8691l8 1 1-3-9 2M5727 8682l10 1 0-4-10 3M5762 8672l13 2 1-5-12 0-2 3M5796 8663l18 2 0-7-15 0-3 5M5831 8654l21 2 2-9-20 1-3 6M5865 8645l26 2 2-10-24 0-4 8M5287 8780l29 2 0-10-22 0-7 8M5328 8769l21 2 0-7-16-1-5 6M5368 8758l14 1 0-4-11-1-3 4M5408 8747l8 1-8-1M5448 8737l1 0-1 0M5776 8648l1 0-1 0M5810 8639l7-2-7 2M5844 8630l12 1 1-5-11 0-2 4M5877 8621l19 2 2-8-18 0-3 6M5910 8612l26 2 3-10-26 0-3 8M5225 8777l24 1 0-8-18-1-6 8M5266 8765l16 1-1-5-11 0-4 4M5308 8754l6 1-6-1M5856 8606l6-1-6 1M5888 8597l14 2 1-6-13 0-2 4M5921 8589l21 2 3-9-22 0-2 7M5162 8773l22 1-1-6-16-1-5 6M5204 8762l11 0 0-3-11 3M5899 8574l9 1 1-4-10 3M5931 8565l18 2 3-7-19 0-2 5M5098 8770l20 1 0-6-15-1-5 6M5141 8758l9 1-1-3-8 2M5908 8551l7 1 2-3-9 2M5940 8543l17 1 3-7-18 0-2 6M5032 8767l22 1 0-6-16-1-6 6M5077 8755l8 1-6-3-2 2M5917 8528l7 1 1-3-8 2M5948 8520l18 2 3-8-19 0-2 6M4966 8765l25 1 0-8-19-1-6 8M5011 8753l11 0-1-3-10 3M5924 8506l9 1 2-4-11 3M5955 8498l21 2 4-9-23 0-2 7M4899 8763l29 1 0-9-22-1-7 9M4943 8751l16 0 0-4-11-1-5 5M5931 8484l13 1 2-5-14 0-1 4M5962 8475l24 3 5-10-27 0-2 7M4875 8749l22 0 0-6-16-1-6 7M4921 8736l6-1-6 1M5907 8470l6-2-6 2M5937 8462l18 1 4-7-21 0-1 6M4806 8747l30 1 0-9-22-1-8 9M4851 8735l15 0 0-4-11-1-4 5M5912 8448l11 1 3-5-13 0-1 4M5942 8440l24 2 6-10-28 0-2 8M4781 8733l24 1 0-7-18-1-6 7M4828 8721l7-2-7 2M5887 8434l7-2-7 2M5917 8426l19 2 4-8-22 0-1 6M4756 8720l19 0 0-5-14-1-5 6M5861 8421l1 0-1 0M5891 8413l15 1 4-6-18 0-1 5M4731 8706l14 0 0-4-10-1-4 5M5865 8400l11 1 3-5-14 0 0 4M4659 8705l27 1 0-8-21-2-6 9M4705 8693l11 0 0-3-8-1-3 4M5838 8386l8 1 3-4-11 0 0 3M5868 8378l21 2 6-9-26 0-1 7M4632 8692l25 0 0-7-19-1-6 8M4678 8679l9-2-9 2M5811 8373l8-2-8 2M5841 8365l19 2 6-9-25 0 0 7M4604 8679l25 0 0-7-19-1-6 8M4651 8666l7-2-7 2M5784 8360l7-2-7 2M5813 8352l19 2 6-8-24 0-1 6M4576 8666l24 0 1-6-19-2-6 8M4623 8654l7-2-7 2M5756 8347l7-2-7 2M5785 8339l19 2 6-8-25 0 0 6M4548 8654l25 0 0-7-19-2-6 9M4595 8641l8-2-8 2M5727 8335l9-3-9 3M5757 8327l19 1 6-8-25 0 0 7M4519 8641l26 0 1-8-21-1-6 9M4565 8628l11 0 0-3-8 0-3 3M5698 8322l8 1 3-4-11 0 0 3M5728 8314l21 2 6-9-27-1 0 8M4535 8616l14 0 0-4-11-1-3 5M5669 8310l10 0 4-4-14 0 0 4M4504 8604l18 0 1-5-15-1-4 6M4552 8591l1 0-1 0M5639 8297l14 1 5-6-19 0 0 5M4474 8592l22 0 1-6-19-2-4 8M4520 8579l7-2-7 2M5579 8293l7-2-7 2M5609 8285l18 1 6-7-24-1 0 7M4442 8580l28 0 2-8-24-2-6 10M4488 8568l13 0 1-4-11-1-3 5M5548 8281l11 1 4-5-15 0 0 4M5578 8273l22 1 8-9-30-1 0 9M4455 8556l21 0 1-6-18-2-4 8M4501 8544l6-2-6 2M5487 8277l6-1-6 1M5517 8269l16 1 6-7-22 0 0 6M4423 8544l27 0 2-8-24-2-5 10M4468 8532l14 0 1-4-13-1-2 5M5455 8265l11 1 5-5-16 0 0 4M5486 8257l22 1 7-9-29-1 0 9M4434 8521l23 0 2-7-21-2-4 9M4479 8509l11-3-9-1-2 4M5393 8262l10-3-11 0 1 3M5423 8254l19 1 6-8-25-1 0 8M4445 8498l19-1 2-5-18-2-3 8M4489 8486l8-3-7 0-1 3M5329 8259l8-3-8 0 0 3M5360 8250l16 1 6-7-22 0 0 6M4454 8475l18 0 2-6-17-2-3 8M4497 8463l9-2-7-1-2 3M5265 8256l8-3-9 0 1 3M5296 8247l15 1 5-6-20-1 0 6M4462 8452l19 0 2-6-18-2-3 8M4505 8441l10-3-9-1-1 4M5199 8253l11-3-11-1 0 4M5231 8244l16 1 5-6-22-2 1 7M4469 8430l22 0 2-7-21-2-3 9M4511 8419l13-1 2-3-14-2-1 6M4552 8407l6-1-6 1M5100 8259l6-1-6 1M5133 8250l11 1 4-5-16-1 1 5M5165 8242l18 0 6-7-24-1 0 8M4475 8408l26 0 3-8-26-3-3 11M4516 8397l18 0 3-6-19-2-2 8M4557 8386l11 0 2-4-12-1-1 5M4597 8375l7-2-7 2M4637 8364l1 0-1 0M4965 8275l1 0-1 0M4999 8266l7-2-7 2M5032 8257l11 1 3-4-14-1 0 4M5065 8248l16 1 5-6-21-2 0 7M5098 8239l22 1 7-8-29-2 0 9M4521 8375l24 0 4-8-26-2-2 10M4560 8364l20 0 3-6-21-2-2 8M4600 8354l15 0 3-5-18-2 0 7M4638 8343l12 0 2-3-13-2-1 5M4677 8333l10-3-10-1 0 4M4714 8323l9-2-8-1-1 3M4752 8313l6-2-6 2M4788 8303l7-2-7 2M4824 8293l8-2-8-1 0 3M4859 8284l11-3-11-1 0 4M4894 8274l11 0 3-4-14-1 0 5M4929 8265l14 0 4-5-18-2 0 7M4963 8255l18 1 5-7-23-1 0 7M4997 8246l22 1 7-8-29-2 0 9M4640 8322l23 0 4-7-26-2-1 9M4678 8312l20 0 5-7-24-2-1 9M4715 8302l20 0 4-6-24-2 0 8M4752 8292l19 0 5-6-24-2 0 8M4788 8282l20 1 5-7-25-2 0 8M4823 8273l22 0 5-7-26-3-1 10"/>
</g>
<path d="M391.8 844.6L503.7 896L649.6 856.6" fill="none" stroke="#333" stroke-width="0.7"/>
<path d="M391.8 844.6L391.8 732.4" fill="none" stroke="#999" stroke-width="2"/>
<path d="M503.7 896l-2.9 0.8M475.7 883.2l-2.9 0.8M447.8 870.3l-2.9 0.8M419.8 857.5l-2.9 0.8M391.8 844.6l-2.9 0.8M503.7 896l2.7 1.3M540.2 886.1l2.7 1.3M576.7 876.3l2.7 1.3M613.1 866.4l2.7 1.3M649.6 856.6l2.7 1.3M391.8 844.6l-2.9 0.8M391.8 822.2l-2.9 0.8M391.8 799.7l-2.9 0.8M391.8 777.3l-2.9 0.8M391.8 754.9l-2.9 0.8M391.8 732.4l-2.9 0.8" fill="none" stroke="#333" stroke-width="0.7"/>
<g transform="translate(385,687) scale(0.25)" fill-rule="evenodd">
<path fill="#0022ee" d="M543 586l-3 1-2 6-3 1-3 7 0 4 3-3 2 3 6 49 5-44 2-4 3 4 0-6-6-15z"/>
<path fill="#002ce9" d="M565 575l-4-2-3 1-4 18-2-3-2-11-6 0-4 8-3-8-6 0-4 19 1 14 8-10 2-5 1 2 4-9 4 11 7 12 1-8 3-4 3-21 1-1 3 5z"/>
<path fill="#0036e4" d="M522 556l-3 1-2 4 0 6 3 14 2-6 2 4 4 32 5-30 2 0 1 7 1-1 0-12-5-16-6 0zM556 554l-4 1-2 9-5 5-2 10 1 7 1-4 2-2 1 1 6 31 6-35 1-1 3 5 2-9-1-6-5-10z"/>
<path fill="#0040df" d="M558 544l-4 3-2 11 2 3 1-4 3 2 5 11-1 7 7 14 5-38 1-1 2 2 1 5 1-8-3-6-7 0-4 15-3-13zM516 544l-4 21 5 23 5-13-2-13 2-3 3 11-1-7 1-1 2 4 2-5 2 3 8 34 8-19 1-9 2-1 1 2 1-2 0-6-7-20-4-3-4 1-2 5-4 0-2 8-3 4-4-14z"/>
<path fill="#004ada" d="M511 539l-6 0-4 11 1 9 5-10 2-2 1 1 0 5 2-4zM527 533l-4 25 2 12 7-15 1-6 2 0 1 5 1-6 4-5 10 28 2-8-7-30-6 0-4 8-3-8zM587 523l-3 1-2 5-2 17-1 1-3-6-3-1-4 3 1 7 1 1 1-4 3 2 5 13 1-8 2 0 4-25 2 0 1 5 1-2 0-6z"/>
<path fill="#0053d5" d="M507 524l-4 2-5 10 0 3 2 5 2 16 4-16 2-3 1 1 5 32 4-27 1-1 2 4 4 20 1-17-5-27-7 0-2 4-2-5zM497 524l-6 0 0 6 2-1 2-5 2 6zM587 516l-7 0-4 15-4-7-4-2-4 1-3 8-4-3-4 1-4 28 2 14 7-24 7 29 8-33 7 20 5-33 2-4 1 2 1-4z"/>
<path fill="#005dd0" d="M569 514l-4 3-1 9 2 3 1-4 3 2 6 19 2-7-5-22zM490 507l-3 12 1 13 1-2 2 4 4-10 3 7 1 11 8-15 3 15 6-13 3 0 6 41 4-34 1-1 2 3 4 16 5-16 2-3 1 1 7 35 4-39 3 0 4 12 2-7-6-28-6 0-5 11-2-5-6 0-3 15-2-4-2-13-6 0-4 7-2-10-4-3-4 3-2 11-2-8-3-1-3 1-3 8-3-14zM598 496l-4 3-3 20-2 0-2-7-3-1-4 3 0 5 2 3-1 4 1-7 2-1 2 3-3 26 3-20 2 0 3 9 1-2 2 4 5-30 1-1 3 5 0-10-2-5z"/>
<path fill="#0067cc" d="M538 502l-3 1-3 6-5 0-2 5 1 7 1-4 2-2 1 1 6 38 5-36 2 0 1 6 2-6-5-15zM478 497l-2 5 0 8 1 3 3-10 2 0 2 12 2 2 2 15 5-23 6 33 6-27 5 27 5-31 2 0 1 9 1-3 0-11-3-9-4-1-4 3-5-3-3 1-3 7-2-8-6 0-3 6-2-5zM598 489l-6 0-5 16-4-9-4-2-3 1-2 8-2 2-5-11-3-1-3 1-3 11-5 1-2 4 1 7 2-5 2 0 6 32 7-27 7 29 8-32 7 22 6-36 1-1 2 4-1 9 1-5 2 5 2-4-1-4-2-1 0-8z"/>
<path fill="#0071c7" d="M580 489l-3 1-2 8 2 3 2-4 2 2 7 19 1-8-6-20zM566 486l-3 1-3 10 2 4 1-4 2 0 8 23 2-8-5-23zM592 486l0 8 1 1 2-4 2 4 2 0 1-4-2-5zM475 485l-3 10 0 8 1 3 1-2 2 2 1 7 3-13 2 0 2 15 8-17 1 6 2 0-1 5 2 8 7-18 2 2 0 4 2-5-3-15-6 0-2 8-2-1-1-6-6 0-1 6-2 1-2-8zM553 484l-6 0-3 8-6 1-5 13-6-20-3-1-3 1-3 4-3-1-4 2-2 9 1 3 2-4 2 1 7 33 8-21 2 0 1 5 3-9 1 3 2-6 4 8 5 21 8-25 2 0 1 5 1-3-1-12zM609 475l-4 3-5 26 1 6 3 3 2 6 1-9 2-1 2-15 3-3 2 3-3-16z"/>
<path fill="#007bc2" d="M535 472l-3 1-2 5-7 0-3 7 1 7 3-4 9 32 6-22 2-3 2 7 1-11-3-12-3-6zM459 475l-1 7 1 3 1-2 1 1 1 8 2-5 1 2 1-4 2-2 1 1 4 22 4-18 3 0 4 27 6-27 6 29 5-30 6 25 6-18 2-2 2 5 1-9-3-10-6 0-2 9-2-3-2-12-6 0-4 6-2-5-6 0-3 8-2-7-6 0-2 5-3-8-3-1zM623 460l-6 0-4 16-4-9-6 0-3 13-2 3-4-10-3-1-3 1-4 12-5-13-3-1-3 1-3 10-3-7-6 0-2 15-2 1-3-12-6 0-2 8 2 4 1-4 2 0 7 28 8-26 7 31 7-28 8 28 7-32 7 24 6-33 2 0 3 13 2 0 2 7 2-5 1 2 2-15 2 0 1-5 2 0 1 5 1-7z"/>
<path fill="#0084bd" d="M473 474l-4 3-1 6 2 9 4-11 1 3 1-9zM592 468l-3 1-2 7 2 4 1-4 2 0 7 22 1-11-4-16zM462 468l-3 1-2 7 2 9 2-7 2-2 1 3 2-6-1-4zM574 468l-1 9 1 2 1-4 2 0 5 17 2 0 1-4-4-18-4-3zM487 467l-3 1-2 3-3 16 2 8 6-19 2 0 1 6 2-6-2-8zM534 468l-2 4 0 6 1 2 2-5 3 5 6 25 6-23 2 0 6 33 5-37 2 0 2 7 1-10-4-8-6 0-3 9-3-8-6 0-1 9-2 4-3-13zM609 465l-6 0 0 7 2 0 1-3 3 3zM527 468l-6 0-3 14-4-17-6 0-6 15 0 5 5 27 4-31 1-1 2 4 4 20 7-23 2 0 1 5 1-3 0-8zM450 461l-4 3 2 8 2-2 1 3 2 0 0 2 0-2 2 0 0-7-2-4zM637 452l-6 0-4 15-2-4-4 0 1 7-2 14 3-16 5 13 1-3 2 3 3-11 1 2 1-9 1-1 2 3 0-2 2-1 0-3-3-3zM533 391l-7 0-2 4 1 5 3 1 6-3 1-4z"/>
<path fill="#008eb8" d="M441 463l1 4 1-4 1 3 1-2 2 1 1 7 1-7 2 0 2 10 1-3 3 1 2 12 2-13 2 0 1 7 2-6 4 19 2-14 2 0 1 6 2-8 4 19 4-23 2-2 3 9 2 14 5-15 3-4 3 14 8-21 7 37 6-34 5 23 6-20 2-3 1 1 6 34 4-34 1-1 2 3 4 17 2-6-3-17-2-4-6-3-3 1-2 5-2-4-7 0-3 9-3-9-3-1-3 1-4 7-3-9-6 0-1 5-3 3-2-7-7 0-4 6-3-8-3-1-3 1-1 5-2 1-2 5-2-7-6 0-2 5-3-11-3-1-5 2-1 2-2-7-3-1-5 2zM652 446l-4-3-4 2-2 12-2 2-3-4-1-6-5-3-3 1-2 4-2 10-4-10-3-1-4 2-3 11-4-9-7 0-4 12-4-11-7 0-3 10-5-12-3-1-3 1-4 10-7 0-2 7 2 4 2-5 4 7 5 21 6-26 2 0 6 29 8-29 7 27 7-31 7 25 6-29 1-1 3 4 5 15 5-26 2 0 0 8 2-4 2 6 1-3 4 2 0-4 1-1 1 2 1-8 2-3 1 2zM446 385l-4 3 1 4 3 1 4-3-1-4zM592 368l-7 21 1 6 7 4 4-1 1-2 13 0 1-8-3-7-6 0-5-13zM464 388l1 5 7 3 6-4 2 4 6 0 4 2 7-1 4 3 5-2 17 0 4 3 7-4 4 3 11-2 4 3 3-1 2-4 10 4 4-2 7 1 4-3-2-19-4-3-10 0-6 2-4 15-3-15-9-3-7 0-4 3-2 13-4 1-2-2-4-21-4-3-3 1-7 13-5-3-3 1-5 10-12-5-3 1-3 8-2-3-6-2-4 1z"/>
<path fill="#0098b3" d="M480 466l-4 3 0 8 3-3 2-7 1 2 0-2zM457 461l-3 1-2 3 1 10 0-2 2 0zM473 461l-3-1-4 2-1 6-2 2 1 9 2-6 1 3 4-11 2 7zM533 458l-6 0-1 4-5 2-2 4-5-1 0-5-6 0-1 4-2 1-3-3-1-4-6 0 0 6 2-3 2 1 4 24 3-19 1-1 1 2 1-7 2 0 1 5 2 1-1 5 2 7 3-9 1 2 1-6 3-4 6 29 3-21 3-8zM436 449l-4 3 0 6 1-1 1 2 0-2 2 0 2-4 1 1 2 15 2-6 1 3 2-7-5 0 0-6-2-3zM558 447l-3 1-4 13-2-1-1-5-6 0-4 17 2 10 5-18 2 0 1 4 0-2 2 0 5 24 6-24 2-1 2 4 0-7-3-12zM665 438l-3-6-6 0-5 17-2-8-5-6-6 0-3 12-5-9-3-1-3 1-2 9-2 2-2-6-5-2-3 1-4 11-4-11-6 0-4 9-2-2-1-5-3-1-4 3-2 15-4-10-6 0-1 5 2 4 2-5 3 5 5 21 5-23 2-1 3 6 4 19 6-25 2-1 2 2 5 22 5-25 2-2 8 21 4-22 2-3 1 3 2 0 2 8 2 0 1 5 0-2 2-1 2 5 3-19 2-2 2 6 2-4 2 5 2-5 1 2 3-11 1 2 2-3 2 4zM423 384l1 5 4 2 6-3 2 3 3 1 6-1 8 3 4-1 7 3 7-3 2 3 3 1 8-4 1-2-2 3-2-3 1-6 2-1 5 2 4 4-2 5 4 1 4-2-1 1-2-3 7-14 7 5 8-16 2 4 3 18 2 3 6 2-2 2 2 2 6-2-1-2-2 0 4-18 7 0 7 3 2 18-1 1-2-3-1 1 4 3 9-3 0-2-2 0-1-2 4-14 13-1 3 18-1 1-2-3-1 3 4 3 6-1 5-4-3-2 7-22 6 18 5-5 3 6 0 4-3 1 6 2 9 0 6-3 7 1 8-3 7 1 6-2 1-2 6 0 1-5-6-11-6 0-2 4-3-6-3-1-5 2-3-6-3-1-4 2-4-9-3-1-3 1-6 6-4 17-3-12-14 0-4-15-3-1-9 5-2 10-2 3-3-13-9-3-9 3-4 13-3-15-10-5-4 1-7 15-7-3-6 1-3 10-4-17-10-7-3 1-5 10-7-4-4 2-4 7-3-4-3-1-3 1-5 7-4-7-6 0-7 11 1 10-3 1-2-4-4-2-3 1z"/>
<path fill="#00a2ae" d="M495 459l0 6 3-3 2 7 1-2 1 3 2 0 1-4-3-3-1-4zM545 448l-6 0-5 12-2-6-6 0-1 7-5 3-3-9-3-1-4 2-2 6 0 8 1-7 2 0 4 18 1-10 1-1 2 4 1-6 3-4 3 9 4-13 3 10 1-5 3 0 3 17 4-24 2 0 1 7 1-12zM554 446l-4 14 2 11 6-21 4 15 2 1 2 11 7-24 2 2 6 26 4-34 2 0 5 20 2-7-2-6-3-1-1-8-5-2-3 1-3 7-3-8-3-1-3 1-1 5-4 5-2-1-1-6zM640 438l-5 1-3 6-2-1-1-6-6 0-5 10-2-1-1-7-6 0-1 5-6 6 5 16 6-23 1 3 1-2 6 20 4-21 2-4 2 5 2 0 1 7 2 0 2 8zM675 428l-6 0-1 4-3 2-5-3-8 1-4 13-2-5-4-1 2 2-1 5 0-3 2-2 2 6 2 0 1 5 2-4 2 5 4-18 2 0 2 5 1-2 2 5 2-5 1 2 1-7 3 0 2-5 2 4zM405 379l1 6 6 0 2 3 3 1 4-2 6 1-1-3 4-4 3 4-3 0-1 2 3 3 10 0 3-1-1-2-2 2-3 0-1-2 4-1-1-12 7-10 7 12 8-12 7 9 7-13 8 7 7-14 8 7 2 17 6 5 3-15 4-1 10 4 4-12 4-5 8 5 2 18 6 1 3-17 5-3 9 3 2 16 6 1 3-17 7-5 2 3 3 15 6-3 7 0 3 14 6-2 3-16 7-7 5 14 6-6 6 13 5-8 6 12 5-10 6 10-1 2-2-2 0 3 9 2 3-1 2-3 6 1 7-2 1-6-5-9-3-1-4 3-6-1 5-15-1-4-3-1-4 3-3-6-3-1-5 3-3-7-3-1-5 3-4-9-3-1-3 1-6 19-2 2-2-1-2-8-7-2-7 1-5-13-3-1-8 5-4 14-3-12-10-3-9 4-2 10-2 2-3-13-9-4-10 2-3 11-2-2-2-12-10-6-3 1-6 14-5-3-9 1-2 9-3 1-4-2-4-20-4-3-4 2-5 9-3-3-6 0-5 8-3-4-3-1-3 1-5 7-3-5-6 0-1 4 4 16-13 1-3-4-6 0-7 10 0 7z"/>
<path fill="#00aca9" d="M499 455l-4 2-1 5 1 4 2-4 2 0 1 7 1-3 2 6 1-10-2-6zM516 454l-6 0-3 9 1 4 2-5 1 2 1-5 2-2 2 6zM579 451l-5 2 3 12 4-13zM554 450l-4 2-1 5-3 3 2 8 2-4 2 7 2-15 2-4zM528 450l-3 1-1 4-4 5 0 6 2 1 1-3 2 2 1 7 2-16 2 0 1 7 2 0 1 4 2-6 1 3 1-6 2-2-1-3-3 1-3 9-1-11zM597 442l-3 1-1 5-5 3 4 16 4-19 3-4 2 4-1-5zM652 436l-3 1-1 4-2 1 1 5 2 0 1 5 4-14zM673 429l-6 0-2 7 1 4 0-3 3 0 0-4 2 0zM701 367l-1-7-6-10-6 0-3 4-2-3-14-2-10-3-2-3-9-2-2-5-6-1-4-3-1-5-9-3-5 1-5-11-6 0-6 5-3 11-3-8-10-4-3 1-2-2-4-13-6 0-7 17-8-2-3-12-2-4-3-1-3 1-6 14-5-2-9 4-3 10-2-2-2-12-10-7-3 1-6 13-6-4-8 2-3 8-4-2-8 2-3 8-1-2-7-1-3 1-3 6-1-2-8-1-3 1-2 3-1-2-5-1-7 2-1 2-2-3-3-1-3 1-4 5-4-7-6 0-7 10-1 7-3-6-6 0-1 4 2 5-5 4 5 17 2 0 4 4 5 0 2 3 3 1 7-4-1-2-2 3-1-3 7-6-1 1-2-2 0-5 7-9 6 11 3-7 6 0 6 10 3-9-5-19 1-1 5 8 8-12 7 9 7-13 7 8 8-15 6 23 5 1 5 4 3-13 7-1 7 5 7-17 8 6 2 16 5 2 2-2 2-13 8-2 7 4 2 15 6 1 3-15 7-4 8 3 2 14 6 0 3-16 6-5 6 17 6-4 7 1 2 10 8 0 8-22 6 14 6-7 5 13 6-8 5 12 3-4 1 1-5 16 1 4 3-4 7 0 1 3 3-6 5 8 0 2-3 1 6 2 4-3 8-2 0-6 3-2z"/>
<path fill="#00b5a4" d="M575 444l-6 0 0 6 2-5 2 5 2 0zM584 442l-2 5 1-1 1 3 2-3 1 1 2 9 0-2 2 0 1 5 0-14-2-3zM602 439l-3 1-2 5 1 2 0-2 2 0 3 11 1-3 2 1 0 2 2-7-3-9zM631 435l-3 1-1 4 2 5 2 1 1 6 2-5 1 3 2-7-2-6zM617 435l-3 1-2 6 2 5 1-2 3 10 2-5 1 3 1-3 0-8-2-6zM643 432l-1 7 2 3 2 0 1 5 1-3 2 1 0 2 1-11-2-4zM658 428l-2 6 2 3 0-2 2-1 2 6 1-2 2 5 0-13-4-3zM672 427l-1 4 2 0 1-3 3 6 2 1 0-7-4-2zM365 350l1 6 5 2 3 12 3 1 3 5 5 1 2 3 7 2 3-1 0-2-3-2 2-3-4 2-3-7 1-4 3 6 2-3-4-15 2 0 4 9 6-7-2-1 0-6 7-9 7 12 7-10 6 9 2-7 5-2 4 2 4 7 3-10 6 0 6 7 3-11 5 0 6 7 1-9 2-4 6-1 5 6 4-13 5-1 8 6 7-16 8 7 2 13 6 4 3-13 7-4 7 4 7-17 2 3 4 16 6-2 6 3 8-19 6 18 6-3 8 4 1 11 7 0 2-14 7-6 6 16 5-5 8 2 2 9 9 0 2 8 2-2 7 1 2 7 2-3 7 1 2 5 2-3 7 1 2 4 2-4 6 10 5-11 6 9-1 8-2 2-5-3 5 7-3 3-1-1 2 3 3 1 10-4 4-6 7 0 2-4 0-3-4-6 2-5-1-9-6-11-3-1-4 2-6-3-5 1-6-3-10-2-5-4-6-1-3-2-1-3-8-2-3-6-9-4-5 2-4-10-6 0-6 6-2 10-2 1-3-9-9-4-4 1-2-2-3-11-6 0-7 16-4-2-2-9-10-6-9 5-3 10-5 0-6-17-3-1-3 1-6 14-5-3-9 4-3 10-2-3-2-11-10-7-4 2-5 10-6-4-8 3-3 6-5-1-7 2-2 5-5-2-8 3-2 3-5-2-7 3-1 2-6-3-8 3-1 2-2-3-3-1-7 3-7-4-3 1-7 9-1 7-1 1-2-4-6 0 0 8-5 1z"/>
<path fill="#00bf9f" d="M569 443l0 9 2-7 2 2 1 7 3 3 1-6-3-8zM589 440l-6 0-2 8 2-2 1 3 3-5 2 4zM604 437l-3-1-4 2-1 10 1-3 1 2 1-3 1 3 2-5 2 6zM618 435l-6 0-2 6 0 7 2-6 2 5 3-9 2 8 1-7zM630 431l-3 1-2 7 0 5 0-3 2-1 2 5 2-7 2 2 0 3 2-4-2-7zM648 430l-7 0-2 11 2-4 3 5 2-8 3 6zM662 427l-6 0-2 11 1-4 3 3 3-7 2 5zM676 424l-6 0-1 8 1-1 1 2 0-2 2 0 1-3 3 4 1-5zM743 332l-8-15-3-1-6 2-5-3 1-4-6-14-3-1-5 3-3-6-3-1-5 3-4-8-3-1-4 2-4-7-3-1-4 2-5 9-1 5-2 1-4-5-8-3-2-5-10-4-4 1-5-10-3-1-3 1-6 6-3 9-4-8-7-4-7-1-4-11-6 0-6 14-6-2-3 1-5-13-6 0-6 14-2-2-7-1-2-9-2-4-3-1-3 1-7 13-5-3-9 4-3 7-2-1-2-8-7-7-3-1-3 1-5 10-6-3-9 5-2 5-4-2-9 4-2 5-3-2-1-6-8-11-3-1-4 2-4 8-3-4-3-1-4 2-4 7-7-5-4 2-4 7-4-5-6 0-7 13-1 9-7-4-8 4-3-4-3-1-4 2-5 8-2 9-3-6-6 0 0 8-5 4 2 8-3 1-1 4 4 10 0 4 5 4 0 3 4 6 2 0 5 6 6 1 2 3 7 3 4-1 4 3 3-1-1-2-5-3-1 1-3-7-2 2-2-2-4-16-3 3-1-3 7-9 7 13 2-4-4-15 2 0 4 8 1-5 3-2-1-7 8-10 6 10 2-6 5-3 7 8 2-6 6-3 3 2 4 7 2-8 5-3 7 7 2-8 6-3 4 3 3 5 3-12 6-1 6 5 2-10 5-3 8 7 8-15 8 7 1 10 8 6 2-12 7-4 7 5 7-17 2 3 4 16 6-2 5 3 2-12 7-5 8 6 1 9 9 3 8-18 2 3 3 14 6-4 7 3 2 10 3-1 5 2 2-12 7-7 5 15 7-6 7 4 1 7 2-2 7 2 2 8 2-3 6 1 3 2 0 3 4-1 6 2 1 4 4-3 6 3 1 3 4-4 6 3 1 3 3-5 6 10-2 8 2 1-2 4 5 8-2 3-3 0-3-3-5 9-5 0-1 4 3 1 7-3 8-7 6 1 7-4 8-13 1-6z"/>
<path fill="#00c99a" d="M646 386l0 6 6 0 1-4-2-1-3 2zM659 387l4 3 4-2 1-4-2 2-3 0-2-2zM411 382l2 6 6 0 0-5-2 3-3-4zM683 380l-6 3-2-2 0 5 6 0zM701 374l-2 3-2-2-2 3-2-2-5 3 4 3 7-1zM767 317l-6-13-4-5-4-11-6 0-2 3-3-5-6 0-6-4-4 0-20-9-12-7-4 2-4-8-3-1-5 2-4-9-6 0-6 12-4 2-2-4-5-4-5-2-4 2-5-10-3-1-6 4-4 9-3 1-2-6-5-4-5-2-4 2-5-12-6 0-6 13-5-3-4 1-4-11-3-1-4 2-6 11-5-3-3 1-2-2-3-10-3-1-3 1-6 12-3-3-6 0-5 5-2 5-2 0-2-2-1-5-7-7-3-1-4 2-5 10-3-3-6 0-6 4-2 5-4-3 0-3-5-7-6-4-4 2-4 8-3-3-6 0-6 9-6-4-8 4-2 3-5-2-3 1-6 6-5-3-10 6-5-3-9 6-2-3-3-1-3 1-5 7-4-5-6 0-7 11 0 6-2 2-2-4-4-2-3 1-3 4-5 12-3-4-6 0-1 4 2 4-4 2 0 6-4 2-1 4 5 12 0 8 5 1 3 9 5 3 3 8 3 1 4-2 3 6 4 0 5 6 7 0 5 5 7 0 4 3 6-1 2 4 6 1 3-1 2-3-5 0-2-3-2 2-2-3-1 1-3-3-2 1-1-2-2 2-2-3-3 0-1-4-2 2-2-3-2 2-5-8-2 2-3-3-2-8-4-3-2-6 1-3 3 6 2-4-4-12 2 0 3 6 2-3-4-15 2 0 4 9 5-7-1-7 7-10 7 11 1-6 6-4 7 9 1-5 4-2-1-9 7-12 8 10 7-13 7 10 8-14 7 8 7-13 8 10 1 9 2-1 6 6 3-10 6-3 6 7 2-10 7-5 7 7 7-15 8 8 1 9 2-1 6 4 2-10 7-4 7 5 8-16 2 3 3 14 6-3 6 5 8-17 6 17 5-4 8 4 7-17 6 17 5-5 9 6 1 7 2-1 4 2 2-2 1-8 7-7 6 15 5-5 4 1 5 3 1 5 2-1 8 5 1 5 3-2 5 3 2-10 6-9 6 14 5-8 6 13 6-7 5 12 6-8 6 13-2 4 1 8 3-5 7 3 1 2 3-5 6 11-3 7-6-3 6 9-4 12-2 1-5 9-4-2 2 2-2 3-2 0-3-3-2 4-2-1-2 3-1-1-1 4 4 2 5-1 2-3 2 0 2-4 4 2 5-1 11-10 4 2 6-4 13-26 0-8z"/>
<path fill="#00d396" d="M536 394l0 7 6 0 2-6-2 2-4 0zM572 394l2 6 5 1 4-3 0-2-4 0-2-3-2 3-2-3zM562 393l0 7 6 0 2-6-2 3-2-2-2 1zM547 394l1 6 7 0 0-5-2 3-2-3-1 1-2-3zM522 393l0 7 6 0 2-5-3 3zM508 394l2 5 3 1 4-3 0-2-4 1-2-3-2 3zM586 394l2 4 5 2 4-3-1-4-2 3-6-4zM496 392l0 7 6 0 2-5-3 3zM602 392l1 5 6 0 1-5-2 2-3 0-2-3zM482 392l2 5 3 1 4-1 1-4-2 2-3-1-2-3-2 3zM612 393l4 5 3 1 3-1 2-3 0-4-5 2-2-3-3 0zM469 391l2 7 3 1 5-2 1-4-2-1-2 2-2-3-2 2-2-3zM458 390l1 5 6 0 1-4-2 2-2-2-1 1-2-3zM627 389l1 5 4 2 5-1 2-4-1-3-4 3-2-2-2 2-2-3zM642 387l-1 2 2 3 5 2 3-1 0-6-2 3-3-4zM656 385l1 5 4 2 5-2 1-4-2-1-2 2-2-3-2 2-2-2zM670 383l2 4 5 2 3-1 2-3-1-3-3 2-3-3-3 0zM690 377l-4 2 1 5 4 1 4-2 1-4-4 0zM284 312l1 5 4 0 3 5 1 10 4 0 2 2 2 7 6 3 3 7 6 0 4 8 3 1 5-2 3 6 4 1 4-2 2 5 5 2 4-3 2 5 5 2 4-3 2 5 5 2 4-3 2 5 5 2 5-3 3 5 4 1 4-2 2 3 5 2 4-3 4 5 3 1 3-1 3-5 3 5 5 1 4-3 3 5 5 1 4-3 2 4 3 1 5-1 2-4-5-1-2-3-2 3-2-3-2 2-3 0-2-3-2 2-2-3-3 0-2 3-3-4-1 1-2-2-3 0-3 3-2-4-1 1-2-3-2 3-2-3-2 3-2-4-1 1-2-2-2 2-2-2-2 2-3 0-3-5-1 1-2-2-2 2-3 0-3-5-3 0-2 3-4-3-2-5-6 3-5-8-2 2-3-1-3-8-6 4-5-12-2 2-2-2-4-12-2 2-1-1 1-2-4-11 1-1 5 7 1-3-4-13 2 0 4 8 2-5-4-11 2 0 3 6 1-5 3-2 0-6 7-10 7 12 1-6 4-3-1-7 7-10 7 10 8-12 6 8 2-5 6-5 7 8 1-6 7-5 7 8 1-7 6-5 7 7 1-7 7-5 7 8 8-14 7 7 7-13 8 9 1 7 2-1 6 5 2-8 7-5 7 7 8-15 8 8 1 7 2-1 6 5 2-9 6-6 8 6 7-15 2 3 3 13 6-4 7 5 8-15 2 3 3 13 6-5 7 5 7-16 6 16 6-5 8 6 1 7 2-2 6 3 2-9 6-7 6 15 6-6 8 6 1 5 2-2 6 3 2-8 6-9 6 15 6-7 5 14 6-7 6 3 3 5 2-2 6 3 3 5 2-3 6 3 2 4 3-3 7 4 2 4 3-4 5 11 6-9 6 13-2 7 1 1 3-5 6 12-3 6 2 1-3 5 1 2-2 1 1 2-2 0 1 2-6 12-7 9-5-5-2 4-2 0-1 3-8 7-2 0-3-3-10 9-2 0-3-3-5 5-3 0 0 3 5 3 5-1 5-7 3 4 3 1 3-1 6-8 2 3 4 1 6-3 3-5 5 3 4-1 3-6 3-1 3-5 6 3 3-1 10-16 5 3 4-1 2-7 3-3 0-6 4-5 0-5-6-11 2-11-6-14-3-1-5 2-5-4-6-17-6 0-2 3-3-7-3-1-3 1-2 3-4-7-3-1-5 2-3-6-3-1-4 2-4-7-3-1-5 2-3-7-6 0-8 12-5-2-18-13-3-1-4 2-4-9-3-1-6 4-5 9-3-1-9-9-3-1-4 2-4-10-3-1-4 2-6 11-4-2-9-10-3-1-6 4-5 8-3-1-5-7-7-4-3 1-8 10-8-9-7-4-6 4-4 7-4-2-3 1-2-2-3-10-3-1-4 2-5 10-3-3-6 0-6 5-2 4-3-1-6-10-6-4-3 1-5 10-6-4-7 4-3 4-5-2-3 1-7 7-4-1-7-11-5-3-4 2-4 8-3-3-6 0-5 8-7-5-4 2-4 7-7-5-3 1-3 6-2 1-3-4-3-1-4 2-4 7-4-5-6 0-7 13 0 5-2 2-6-4-8 6-3-4-3-1-4 2-6 9-2 7-2-4-6 0-1 4 2 5-7 2-6 10 0 5-3 4 0 4z"/>
<path fill="#00dd91" d="M844 292l-6-13 3-7-1-4-3-1-4 3-11-21-3-1-5 3-3-6-7 0-4-4-6 0-5-5-6 0-5-4-5 0-7-5-5 0-6-6-5 0-6-6-5 0-6-6-3-1-5 2-3-7-3-1-3 1-8 10-4-2-1 1-7-7-4 0-7-7-3-1-5 2-4-9-3-1-3 1-6 11-16-11-3 1-8 10-3-1-9-9-3-1-4 2-4-9-3-1-4 2-5 10-6-4-4 2-4-10-3-1-3 1-5 10-7-4-4 1-4-9-3-1-3 1-6 11-6-4-3 1-7 8-3-1-9-10-3-1-3 1-7 9-5-3-3 1-5-10-3-1-4 2-4 8-7-4-3 1-6 8-5-3-3 1-7 8-4-2-9-11-3-1-4 2-4 8-7-4-3 1-6 7-5-3-3 1-6 6-6-3-3 1-6 7-5-3-3 1-6 6-6-3-3 1-6 6-6-4-3 1-5 6-6-4-3 1-6 7-3-4-3-1-4 2-3 6-4-4-6 0-6 9-3 9-3-4-3-1-3 1-5 7-3-4-6 0-1 4 2 5-6 2-6 9-2 5-2-3-3-1-3 1 0 7-4 2 0 8-4 3 5 14-1 5-4 6 1 5 4 0 2 2 2 5 0 6 5 0 5 8 6 0 4 8 5 2 4 8 3 1 4-3 4 6 8 0 3 5 7 0 4 6 4 1 4-2 3 5 8 0 3 5 3 1 5-3 3 5 4 1 5-2 2-3 3 7 3 1 3-1 2-3 3 6 4 1 5-3 3 4 3 1 5-2 3 5 3 1 8-5 3 6 3 1 3-1 2-4 4 5 3 1 5-3 3 5 3 1 8-5 3 6 3 1 3-1 3-4 3 4 3 1 5-3 3 5 3 1 9-6 2 4 4 1 5-3 3 4 3 1 8-6 3 5 3 1 6-4 2 4 4 2 3-1 5-6 3 4 3 1 6-3 2 4 4 2 3-1 4-6 7 5 3-1 5-6 3 5 3 1 6-4 3 4 3 1 3-1 5-7 3 5 4 1 3-1 4-6 2 4 4 2 3-1 3-5 3 4 3 1 6-3 2-3 3 3 4 1 3-1 5-7 3 4 3 1 6-2 2-4 3 4 3 1 3-1 3-4 6 4 6-2 3-5 3 4 3 1 3-1 4-7 8 3 5-2 3-5 6 4 3-1 4-6 3 0 2 3 3 1 3-1 5-8 3 3 4 1 3-1 5-7 3 3 6 0 9-13 6 3 4-1 5-8 3 3 6 0 9-15 6 3 4-1 14-29 0-6 4-7zM287 313l6-7-1 1-1-3 5-6-2 0 0-3 7-10 6 9 2 0 1-3-4-13 2 0 4 8 0-3 3-4 0-6 8-11 7 10 1-5 6-6 7 9 1-5 4-3-1-6 7-12 8 10 7-13 7 10 7-13 8 9 7-13 7 9 8-13 7 7 7-13 8 10 1 5 2-2 7 7 1-7 7-6 6 8 2-8 7-6 7 7 7-14 8 9 1 6 2-2 7 5 1-7 7-6 7 7 8-15 2 3 3 13 6-4 6 6 2-8 6-7 9 8 1 4 1-1 6 5 2-7 7-7 8 7 1 5 2-2 6 5 2-7 7-8 8 8 1 4 2-2 7 5 8-15 5 15 6-6 8 7 1 4 2-2 5 4 2 0 1-7 7-8 5 14 6-6 6 4 3 5 2-2 4 3 5 7 2-3 6 5 3-9 6-7 5 13 6-7 6 13 5-7 6 13 5-8 6 12 6-8 5 13 6-9 6 14-2 4 1 5 3-5 8 7 3-5 6 13-2 4 1 4-5 9 1 1 3-6 6 10 0 3-3 3-5-5 4 8-1 6-6-4 4 7-1 4-2 1-6-7-5 11-7 10-6-7-5 9-3 1-4 7-6-6-6 9-1-1-3 3-5-6-9 11-5-6-9 9-2 0-4-4-5 5-2-1-3 4-4-4-2 3-2-2-6 7-5-5-11 8-4-5-2 2-1-1-2 3-1-1-3 4-5-5-2 3-2-2-5 6-2 0-4-5-2 2-1-1-6 7-5-6-2 3-2-2-4 4-3-4-2 3-2-3-6 6-5-5-2 2-1-1-2 3-2-1-2 3-2 0-4-5-8 5-3-5-3 0-2 3-2-1-2 3-2 0-3-5-2 3-2-2-5 5-2-4-4-2-5 5-3 0-3-5-2 3-2-3-2 3-1-1-2 2-2-4-2 3-2-3-2 2-1-1-2 3-3 0-3-5-3 0-2 3-4 0-2-4-2 3-2-3-2 2-1-1-4 4-4-6-3 0-2 3-3 0-3-4-3 0-2 2-2-1-2 3-2 0-4-6-7 4-4-6-3 0-2 3-3 0-3-5-3 0-2 3-2-1-2 3-6-8-5 5-6-7-6 4-5-8-2 2-1-1-3 4-3-2-2-6-2 3-2-2-2 3-3-2-2-6-2 2-2-1-2 3-2-1-3-8-3 3-1-1-2 3-2-1-4-9-2 3-1-1-3 3-5-11-6 6-5-12-4 4-2-1-5-10-2 2-2-2-3-10-4-3-5-13-3 3z"/>
<path fill="#00e68c" d="M851 369l-3-1-4 3-2 8 1 8 1-3 2 0 3-9 2 7zM866 364l-3-1-4 3-2 8 1 8 1-3 2 0 2-8 2 1 1 5 2-5zM193 341l-6 0-2 6 1 4 2 0 2-6 2 6 2-1 1-6zM918 289l-6-13 3-8-11-20-4-11-3-1-4 2-4-4 2-5-2-4-3 4-8-8-3 4-9-9-3 3-8-8-3 5-8-9-3 4-8-9-3 4-8-9-3 4-9-10-3 3-8-8-3 4-8-10-3 5-8-11-3 4-8-9-3 4-2-3-2 1-4-5-3 3-8-9-4 3-8-9-3 3-2-1-6-9-3 3-8-9-3 3-2-1-6-8-3 3-8-8-4 2-2-1-5-7-4 2-2-1-6-8-3 2-8-8-3 2-8-8-3 2-8-8-6 0-5-6-4 3-2-1-6-8-4 8-4 3-7-6-4 9-3 2-3-1-4-6-5 10-3 2-7-6-4 9-3 2-7-7-5 10-3 2-7-7-4 8-4 3-7-6-4 9-3 2-3-1-4-6-5 10-3 2-7-6-4 9-3 2-3-1-4-6-4 6-1 5-3 2-7-7-4 9-4 2-6-7-8 11-1-1-1 2-5-7-8 10-2 1-5-5-7 9-7-8-6 7-2 5-7-8-7 13-7-8-6 7-2 7-7-10-5 6-3 7-7-8-4 5-3 8-7-9-6 7-2 5-7-8-4 5-3 8-7-9-6 7-2 6-7-10-4 5-3 8-7-9-6 7-2 6-7-10-6 7-2 5-7-9-2 3 1 3-4 2-2 5-1-2-2 1-4-5-6 4-2 5-1-2-6 14-4-4-6 0-9 17-2-3-6 0 0 6-5 3-6 12 0 3-4 6 0 4-6 14 1 4 2 0 4 5 1 11 4 0 2 2 2 5 0 7 6 1 2 5-1 5 1 2 5 1 3 9 3 1 5-3 4 7 3 1 4-2 3 5-4 7-2-5-3-1-3 1-2 6-2-7-3-1-3 1-2 4 1 5 2 0 0-2 2-1 1 3 3 1-1 8 2 4 2-5 1 2 1-6 3-2 1 1 3 19 1-6 2 0 1-6 3-2 4 20 1-6 2 0 1-6 3-3 4 20 1-6 2 0 3-8 3 6 2 13 2-7 1 2 3-9 3 4 2 16 1-6 2-2 1 2 1-6 3-1 3 17 3-8 1 3 2-7 1 2 1-2 2 4 2 13 2-7 1 2 2-7 1 2 1-2 3 6 1 8 1-3 2 0 1-5 2-2 4 6 1 9 2-5 1 2 3-8 1 3 1-2 1 1 1 9 2 4 0-3 2-2 1 2 2-7 1 2 1-2 1 5 6 5 2-5 1 2 1-2 2 5 1-2 2 5 1-1 1 2 2-5 1 2 1-2 2 5 1-2 2 6 1-2 2 1 0-3 2-1 6 9 1-5 4-3 5 3 1 8 2-1 1-4 4-1 3 2 0 6 2 1 1-3 5-4 3 2 2 11 1-5 5-4 3 2 2 11 1-5 4-3 3 2 3 11 1-6 4-3 5 4 1 7 2-1 0-3 3-2 4 2 2 8 2-1 0-3 5-3 3 2 2 11 1-6 5-3 3 2 2 12 1-7 4-3 4 4 2 10 1-6 4-4 0-4 3-2 3 2 4 11 4-13 4-3 3 2 2 11 3-3 0-4 2-1 1-5 3-2 4 3 3 9 2-8 6-7 3 2 2 10 3-3 0-3 2-1 1-6 3-2 4 3 3 8 1-5 4-3 0-3 3-2 4 4 1 7 0-2 5-5 2-6 5 0 4 9 2-7 6-6 5 5 1 5 2-1 0-4 3-2 2 1 0-3 2-2 2 6 2 0 1 3 3-2 1-5 4 0 1-4 1 2 2 0 0 3 3 0 0 2 2-1 1-4 4 3 2-8 5 8 1-2 2 0 1 2 2-5 1 2 2-7 4 5 6 1 1-4 2 2 2-7 1 3 1-2 2 5 1-2 4 3 2-5 1 2 2-7 7 12 0-4 2-1 1 2 2-7 1 2 2-7 1 3 1-2 4 11 2-5 1 2 1-7 1-1 2 3 2-7 6 11 1-4 2 2 1-7 1-1 1 3 2-8 4 5 2 10 1-7 1-1 1 2 2-7 2 2 2-8 1 3 2 0 3 12 1-7 1-1 1 2 2-7 1 2 1-6 2-1 3 4 2 10 1-6 2 0 1-6 2-2 1 3 2-8 1 3 2 0 3 12 1-6 2 0 2-7 1 2 1-6 2-2 5 15 1-6 2-2 1 2 1-7 1-1 1 2 2-8 1 2 2 0 3 14 1-7 1-1 1 2 1-6 2-2 1 2 2-8 2 2 3 14 1-6 2-3 1 2 1-7 1-1 1 2 3-9 2 7 0-3 2 0 1 10 2-5 1 2 3-10 1 3 1-7 1-1 2 2 1 4 2-6-5-13 3-1 5-9 3 4 7 0 8-16 3 4 7 0 3-9 5-8 3 4 7 0 3-9 5-8 6 4 4-1 2-5-1-3 2-1 5-11 0-6 2-1zM841 293l-2 4 1 3-4 7 0 3-4 7 1 2-8 16-5-6 4 7-1 4-2 1-6-7-8 14-6-7 5 9-3 4-6-8-8 13-7-7-8 12-5-5 4 7-3 4-6-8-8 12-7-7-8 12-6-8-9 11-6-7-5 8-4 2-5-7-9 12-6-8-6 9-1-1-2 2-6-7-6 8-5-8-5 7-4 2-5-7-3 4-2 0-4 6-6-7-9 9-5-7-3 4-2 0-2 4-5-9-8 10-6-8-3 4-2 0-4 6-6-8-6 7-5-8-9 9-6-8-8 10-6-9-6 6-5-7-2 3-2-1-5 7-6-9-6 7-5-8-2 3-2-1-5 6-6-8-6 6-5-8-9 9-6-9-5 6-6-8-6 8-5-10-9 8-6-9-5 6-6-8-2 3-2 0-2 4-5-10-9 8-6-9-5 5-6-8-6 6-5-10-6 7-5-11-8 8-7-9-5 6-6-10-5 5-6-10-5 6-6-10-3 4-2 0-6-10-5 5-7-10-4 6-6-11-4 0-5-12-4 5-6-11-4-1-5-13-2 0 2-6 2 0-3-11 1-1 3 5 2-5-5-12 1-1 5 7 2-3-4-12 1-1 5 8 3-7 0-4 8-11 7 11 2-6-5-11 1-2 5 7 8-12 7 11 0-3 3-5 0-5 8-12 7 10 7-13 7 9 1-4 7-8 7 10 1-6 6-7 7 9 1-5 7-7 7 9 1-6 7-7 7 8 1-6 6-7 7 8 1-5 7-7 7 8 1-6 6-7 8 7 7-13 8 10 0 3 3-2 7 8 1-7 7-7 6 7 2-6 6-7 8 7 7-13 6 15 5-5 7 8 1-7 7-8 9 12 2-2 7 6 1-6 6-7 8 6 7-14 6 15 5-6 8 7 7-14 5 15 6-6 7 7 8-15 5 14 6-6 8 8 1 3 2-2 6 6 2-7 7-8 8 8 0 2 3-2 7 6 7-15 6 14 6-6 8 8 0 3 3-4 8 8 0 2 3-3 7 6 2-8 6-7 5 13 6-7 8 8 0 2 3-4 8 8 0 2 3-4 8 8 0 2 3-4 9 7 0 2 3-4 8 7 0 2 3-5 8 9 3-4 8 9 3-5 6 12 5-8 6 11 0 5-2 3 1 1 3-5 7 13-3 6 4-5z"/>
<path fill="#00f087" d="M285 408l4-17 2-1 5 25 4-19 2-2 5 25 6-25 5 30 6-23 2 4 3 23 3-8 1 3 3-15 5 24 2-7 1 2 3-12 2 3 3 19 1-6 2 0 3-11 2 2 3 19 1-6 2 0 1-6 2-2 1 3 1-2 1 1 2 16 1-6 2-2 1 2 1-6 4 0 2 16 3-9 1 3 1-6 2 0 1-3 4 19 1-6 2 0 1-6 2 0 1-3 4 20 1-7 2 0 1-6 2-2 3 6 2 13 1-6 2-1 1-6 2-2 3 3 2 16 1-6 2-3 1 2 2-7 3 2 2 16 3-9 1 2 1-6 2 0 1-2 4 20 4-14 2 0 1-2 4 20 1-6 2-1 1-7 2-2 2 3 3 18 1-7 2-1 3-9 1 2 2-8 2 3 4 16 1-6 2-1 1-6 2-1 1-6 2-2 5 19 1-6 2-3 1 2 1-7 2 0 2-7 2 2 4 16 1-6 2-1 3-9 1 2 1-6 2 0 4 17 1-6 2-3 1 2 1-6 2-1 2-7 3 4 3 14 1-7 2 0 1-6 2-2 1 2 2-7 2 3 3 14 3-10 1 3 1-6 2 0 2-7 3 3 3 14 1-7 2 0 3-9 1 3 2-7 3 4 3 13 1-7 1-1 1 2 1-7 1-1 1 2 3-11 5 20 1-6 2-2 1 2 1-7 1-1 1 2 3-11 5 20 1-7 1-1 1 2 1-6 2-1 1 2 2-10 5 18 3-9 1 3 5-21 6 24 1-7 1-1 1 2 5-19 2 2 5 20 1-7 1-1 1 2 5-21 6 24 7-31 8 27 6-29 2 0 6 26 8-31 7 28-5-29-8-13-7 13-8-10-7 13-7-9-7 12-8-9-7 13-7-10-2 4-3 2-7-9-7 12-7-9-7 12-8-9-4 6-7-9-7 11-4-3-3-5-8 12-7-10-4 6-7-9-8 12-7-9-5 8-6-11-7 11-8-9-5 8-6-11-7 11-7-9-6 8-6-11-7 11-7-10-6 9-5-12-8 12-7-10-4 6-7-10-7 11-8-9-4 6-7-10-6 9-5-12-7 10-8-9-4 6-7-10-5 8-6-12-7 12-8-11-4 6-7-10-4 6-7-10-6 8-5-13-6 9-5-13-8 12zM810 403l1 1 7-28 7 26 7-31 8 27 1-7 2 0 4-19 2 0 5 21 3-9 1 2 5-20 6 23 1-7 2-1 3-10 1 2 1-7 2 0 4 18 3-10 1 2 1-7 2-1 2-8 2 1 4 18 1-7 2-1 3-10 1 2 2-8 6 19 1-7 2-1 1-7 2-2 2-7 2 2 4 17 1-7 2-3 1 2 1-7 2-2 2-8 6 20 6-19 1 2 2-6 5 18 3-10 1 2 1-7 2-2 2-8 2 3 4 17 6-19 1 2 2-6 5 18 3-11 1 3 1-7 2-2 2-7 2 2 4 18 6-20 1 2 2-7 6 20 1-7 2-2 1-7 2-2 2-7 2 3 4 17 3-11 1 2 1-7 2-2 2-8 6 22 6-26 2-2 6 23-5-33-7-9-4 4-8-9-3 5-8-9-4 5-7-9-3 4-8-8-4 4-7-9-4 5-8-9-4 5-7-9-4 5-7-9-4 4-7-8-4 4-7-8-4 4-8-8-3 4-8-8-3 5-8-10-3 5-8-9-3 6-7-9 4 10 2-2 1 1-4 8 3-4 8 8 4-4 6 13-2 6 3-4 7 13-2 4 1 2-5 9 4-5 6 13-3 4-6-6 6 11-3 6-6-8 5 9-2 6-6-6 5 11-1 3-2 1-7-7-10 21-8-8-10 21-8-8-10 20-8-8-7 13-7-8-8 13-7-9-7 13 2 5zM250 210l-6-15-7 13-7-10-5 6-3 7-7-10-7 13-7-10-5 6-3 7-7-10-8 12-7-9-7 13-7-10-8 12-7-9-7 13-7-10-5 6-3 7-7-10-8 12-7-9-7 13-7-10-8 12-7-9-7 13-7-10-5 6-3 7-7-10-8 16-5 25 6-23 5 29 3-11 1 2 3-11 5 26 1-7 5-11 5 24 1-7 2-2 3-11 5 26 1-7 2-2 3-11 2 3 3 23 3-11 1 2 3-9 4 24 3-11 1 2 3-9 5 24 4-15 2-3 1 1 4 23 6-19 5 25 6-19 2 3 3 22 3-10 1 2 1-6 2-2 4 22 3-10 1 2 1-6 2-2 2 3 3 19 4-14 2-1 2 2 3 19 1-6 2-1 3-10 2 4 3 19 6-19 2 2 3 23 3-9 1 2 1-8 2-3 1 1 3 23 6-23 2 4 4 21 3-22 4-7-6-13-5 7-6-13-6 8-4-12-4-3-5-12-2 2-6-16-3 4-1-1 2-4-7-16 3-4-1 1-1-2 4-6-1-3 6-8-1 1-1-2 5-10 2-2 7 11 2-5-4-10 1-1 4 5 4-10 7-12 7 9 11-22 7 9 2-5 6-7 7 10zM763 173l-8-10-3 4-9-11-3 5-8-11-3 5-8-11-3 4-8-10-3 4-8-10-3 4-9-10-3 4-8-10-3 4-8-11-3 4-8-10-3 4-8-10-3 4-9-10-3 3-8-9-3 5-8-11-8 13-7-8-7 13-7-8-5 6-3 7-7-8-7 13-7-9-8 14-7-9-8 13-7-8-7 13-7-8-5 6-3 7-7-8-7 13-7-8-5 6-3 8-7-9-7 13-7-8-5 6-3 8-7-9-5 6-3 7-7-8-7 13-6-7 4 12 6-6 7 9 1-6 7-8 7 8 7-13 6 7 2 5 3-4 7 8 1-5 7-8 7 8 8-14 6 7 2 5 3-4 6 8 3-7 5-6 8 7 7-13 5 14 6-6 7 8 1-6 7-8 8 9 0 2 3-4 6 8 8-14 9 11 3-3 6 7 8-14 9 11 2-3 7 7 2-7 6-7 8 11 3-4 8 8 7-14 5 14 6-7 8 9 0 2 3-4 7 8 2-8 6-7 5 14 6-8 8 9 0 2 3-4 7 8 2-8 6-7 5 14 6-8 8 9 0 2 3-5 7 8z"/>
</g>
<g font-size="8.2" fill="#222">
<text x="522" y="686.9" text-anchor="middle">Function Topology</text>
<text x="385.8" y="845.6" text-anchor="end">0</text>
<text x="385.8" y="823.2" text-anchor="end">5</text>
<text x="385.8" y="800.7" text-anchor="end">10</text>
<text x="385.8" y="778.3" text-anchor="end">15</text>
<text x="385.8" y="755.9" text-anchor="end">20</text>
<text x="385.8" y="733.4" text-anchor="end">25</text>
<text x="497.2" y="906" text-anchor="end">-20</text>
<text x="469.2" y="893.2" text-anchor="end">-10</text>
<text x="441.3" y="880.3" text-anchor="end">0</text>
<text x="413.3" y="867.5" text-anchor="end">10</text>
<text x="385.3" y="854.6" text-anchor="end">20</text>
<text x="508.2" y="906.8">-20</text>
<text x="544.7" y="896.9">-10</text>
<text x="581.2" y="887.1">0</text>
<text x="617.6" y="877.2">10</text>
<text x="654.1" y="867.4">20</text>
<text x="441.3" y="909.8" text-anchor="middle">x<tspan font-size="6.4" dy="2.5">2</tspan></text>
<text x="572.2" y="912.7" text-anchor="middle">x<tspan font-size="6.4" dy="2.5">1</tspan></text>
<text transform="translate(370.3,788.5) rotate(-90)" text-anchor="middle" xml:space="preserve">F10( x<tspan font-size="6.4" dy="2.5">1</tspan><tspan dy="-2.5"> , x</tspan><tspan font-size="6.4" dy="2.5">2</tspan><tspan dy="-2.5"> )</tspan></text>
</g>
<g font-family="Liberation Serif, Times New Roman, serif" fill="#000" stroke="#000" stroke-width=".5">
<text transform="translate(465.3 960.8) scale(.875 1)" font-size="46" font-style="italic">F</text>
<text transform="translate(488 970.5) scale(1.15 1)" font-size="31.3">10</text>
</g>
</g>
<g id="f11">
<path d="M831.4 894.3L719.3 842.9M719.3 842.9L719.3 730.6M904.5 874.6L792.4 823.1M792.4 823.1L792.4 710.8M977.6 854.8L865.5 803.4M865.5 803.4L865.5 691.1M831.4 894.3L977.6 854.8M977.6 854.8L977.6 742.5M775.4 868.6L921.5 829.1M921.5 829.1L921.5 716.8M719.3 842.9L865.5 803.4M865.5 803.4L865.5 691.1M719.3 842.9L865.5 803.4M865.5 803.4L977.6 854.8M719.3 805.4L865.5 766M865.5 766L977.6 817.4M719.3 768L865.5 728.5M865.5 728.5L977.6 780M719.3 730.6L865.5 691.1M865.5 691.1L977.6 742.5" fill="none" stroke="#e6e6e6" stroke-width="0.7"/>
<g transform="scale(.1)" fill="none" stroke-width="5" opacity="0.5">
<path stroke="#0029eb" d="M8671 8659l-4 1-2-8-57 10-124 8-102-5-18-5-57-1-28-9-28 0-3-8-28 0-44-13-26-1 0-8-26-2-15-12-24-1 5-10-28-1 2-8-30-9 4-9-23-2 4-9-23-18 5-10-19-3 6-10-5-6-13-5 10-11-3-4 5-5-9-7 13-16 1-10 4-2-3-8 24-14 2-6 26-20 42-17-20-3 63-16 22-11 29-8 66-12 60-18 2 8 57-10 124-8 102 5 18 5 57 1 28 9 28 0 3 8 28 0 44 13 26 1 0 8 26 1 15 13 24 1-5 10 28 1-2 8 30 9-4 9 23 2-4 9 23 18-5 10 19 3-6 10 5 6 13 5-10 11 3 4-5 5 9 5-13 18-1 10-4 2 5 7-26 15-2 6-26 20-42 17 18 4-61 15-22 11-29 8-66 12-56 17"/>
<path stroke="#0051d6" d="M8806 8721l-23 0-52 12-21-3-33 7-183 10-13-4-98 2-8-6-34 1-48-4-13-4-33 0-12-5-67-6-8-6-30 0-6-7-23-1-110-28-5-7-25-1-2-8-31-8-4-7-24-2 1-8-18-3-14-13-20-3 2-8-17-4-11-13-11-6-25-25 1-9-17-4 8-10-14-4-1-25-10-5 10-11-10-5 4-18 12-11-15-4 15-13 3-8 12-12-9-6 43-28 4-9 25-15 5-7 26-10-1-7 45-15 1-6 66-17 37-15 80-16 56-17 23 0 52-12 21 3 33-7 183-10 13 4 98-2 8 6 34-1 48 4 13 4 33 0 12 5 67 6 8 6 30 0 6 7 23 1 110 28 5 7 25 1 2 8 31 8 4 7 24 2-1 8 18 3 14 13 20 3-2 8 17 4 11 13 11 6 25 25-1 9 17 4-8 10 14 4 1 25 10 5-10 11 10 5-4 18-12 11 15 4-15 13-3 8-12 12 9 6-43 28-4 9-25 15-5 7-26 10 1 7-45 15-1 6-66 17-37 15-80 16-56 17"/>
<path stroke="#007ac2" d="M8937 8760l-83 15-139 19-25-1-96 9-69 2-19-3-74 4-71-5-35 1-10-6-124-7-12-5-67-6-10-6-29 0-9-6-138-28-6-6-24-2-7-6-33-8-4-7-23-2-4-7-30-8-6-7-20-3-2-7-17-4-15-12-18-3 0-9-18-3-12-13-16-4 2-9-16-3-2-8-35-32-5-15-13-4 7-10-13-5 0-24-11-6 10-10-10-6 3-17 10-11-13-5 13-11 7-19-3-7 29-24-4-7 24-23 51-30 3-9 87-43 142-51 180-35 139-19 25 1 96-9 69-3 19 4 74-4 71 5 35-1 10 6 124 7 12 5 67 6 10 6 29 0 9 6 138 28 6 6 24 2 7 6 33 8 4 7 23 2 4 7 30 8 6 7 20 3 2 7 17 4 15 12 18 3 0 9 18 3 12 13 16 4-2 9 16 3 2 8 35 32 5 14 13 5-7 10 13 5 0 24 11 6-10 10 10 6-3 17-10 11 13 4-13 12-7 18 3 8-29 24 4 7-24 23-51 30 0 7-90 44-142 52-97 20"/>
<path stroke="#00a2ae" d="M8673 8846l-137 7-104 1-106-4-160-14-124-18M9504 8423l6 9-4 9 10 6-1 16 6 7-5 18 6 6-1 9-8 18 5 7-11 11-8 19 3 7-17 13-13 22-23 22-20 12-12 11M7465 8553l-6-8 4-9-10-6 1-16-6-7 5-18-6-6 1-9 8-18-5-7 11-11 8-19-3-7 17-13 13-23 23-21 20-12 12-11M8296 8131l137-7 104-1 106 4 160 14 124 18"/>
<path stroke="#00cb9a" d="M8488 8896l-38 2-17-3-91 0-159-12M9644 8488l-4 15 3 16-12 20 5 6-23 31 5 7-16 12M7325 8489l4-15-3-16 12-20-5-6 23-31-5-7 16-12M8481 8081l38-2 17 3 91 0 159 12"/>
<path stroke="#00f385" d="M8355 8932l-68-2M9749 8536l-1 12-13 11M7220 8441l1-12 13-11M8614 8045l68 2"/>
</g>
<path d="M719.3 842.9L831.4 894.3L977.6 854.8" fill="none" stroke="#a8a8a8" stroke-width="0.9"/>
<path d="M719.3 842.9L719.3 730.6" fill="none" stroke="#a8a8a8" stroke-width="0.9"/>
<path d="M831.4 894.3l-2.9 0.8M775.4 868.6l-2.9 0.8M719.3 842.9l-2.9 0.8M831.4 894.3l2.7 1.3M904.5 874.6l2.7 1.3M977.6 854.8l2.7 1.3M719.3 842.9l-2.9 0.8M719.3 805.4l-2.9 0.8M719.3 768l-2.9 0.8M719.3 730.6l-2.9 0.8" fill="none" stroke="#a8a8a8" stroke-width="0.9"/>
<clipPath id="f11c"><path clip-rule="evenodd" d="M1058 302l-11 14-8 7-2 4-33 31-33 22-24 11-18 6-38 4-18-2-15-5-6 0-22-9-23-13-25-19-16-16-5-3-2-4-8-7-23-26-34-47-3-7-15-21-33-58-33-67-19 25-15 28-26 28-21 32-22 20-29 35-18 12-27 28-22 10-18 17-10 6-17 3-23 16-5 2-21 1-22 10-26-2-15 5-13-1-14-6-26 1-20-11-9-3-18-2-19-15-28-11-24-23-23-12-14-18-12-12-9-5 35 70 18 32 5 6 4 9 9 13 4 9 6 7 3 7 7 8 13 20 16 21 7 6 2 4 28 32 20 17 7 9 10 7 18 18 9 5 9 9 12 9 5 2 15 13 8 3 9 9 18 9 8 7 10 3 13 9 13 5 21 11 4 0 11 6 15 4 12 6 7 0 9 3 7 4 11 0 11 4 11 0 7 3 20 0 7 3 31 0 4-2 20 1 5-2 12 0 4-2 20-2 15-5 12-1 9-5 9-1 9-3 6-4 17-4 9-6 7-1 18-11 11-4 7-6 15-6 11-9 8-3 9-6 10-9 13-8 7-7 11-6 12-12 14-10 13-13 12-9 73-75 5-8 21-22 5-9 13-14 10-16 13-14z"/></clipPath>
<g transform="translate(713,685) scale(0.25)" fill-rule="evenodd">
<g id="f11s">
<path fill="#0012f6" d="M506 674l6 0 7 3 21-1-1-3-6-2-23 0zM484 671l8 3 9 1-1-4-9-4-6 2zM610 670l-1-2-6-2-6 3-28 1-4 2-11 1-3-1-3 1-2 4 8-2 20 1 5-2 12 0 4-2zM456 666l19 5-1-4-6-2-4 1-4-3z"/>
<path fill="#0019f3" d="M601 670l14 0 7-2-4-3-10-1-6 2zM436 659l1 2 8 2 7 4 8-1 14 5 12 1 5-2 10 5 32-1 8 3 8 0 2-2 14 1 4-3 23-1-1-2-8-3-13 4-7-2-23 1-5-2-6 3-2 3-1-2-12-5-5 2-13-2-6 1-12-4-5 3-9-5-4 1-18-5zM665 654l-4-1-10 3-1 2-3-1-14 3-7 3-1 4 5-2 12-1 9-5 5 0 9-3zM629 561l2 5 9 6 8 3 10 1 10-2 1-2-1-4-10-6-10 2-13-8-3 1zM624 554l-4-2-5 2-2 3 1 4 10 0zM605 549l-5 3-1 4 2 3 6 2 3-1 1-4-3-6z"/>
<path fill="#0020ef" d="M678 651l-4-3-12 5-2 4-1-2-7-2-15 6-1 2-13-1-13 3-9 0-4 2-12-2-7 5-5 0-9-4-20 5-19-3-15 1-9-3-7 2-8-4-5 2-14-5-7 3-7-2-4 3 7 1 3 2 5-1 10 6 4-4 9 3 18 1 4 2 5-3 10 5 6 0 5-4 5 2 33 0 8-3 6 2 10 0 11-5 15 1 10-5 36-8 6-4zM397 646l5 4 15 4 9 5 16 2 5 2-1-4-3-2-15-3-5-3-4 1-2-2-7-1-10-4zM568 534l1 5 9 3 17 14 7 3 1-1 5 3 12 0 12 5 4-1 3 2-7-5 3-3 13 9 10-3 8 6-6 1 3 2 16 2 15 6 15-2 4-3 0-3-4-5 1-4-2-3-12-4-15-8-6 3-7-2-4-5-12-5-5 3-5-3-9 3-3-4-5-1-4-6-3-1-6 4-4-2-5 3-8-5-7 2-3-6-3-1-7 5-3-1z"/>
<path fill="#0027ec" d="M382 640l1 2 8 2 7 4 16 4 4 3 5-1 4 3 13 2 6 4 8 0 7 2 6-3 5 3 5 0 4 2 5-2 11 6 3-4 10 3 15-1 17 3 14-2 8-3 5 3 9 1 7-5 13 2 3-2 9 0 13-3 13 0 16-7 8 1 14-6 5 0 9-3 0-2-8-1-11 4-12 1-6 3-2 3-24 0-3 1-3 4-10 0-4-2-14 4-11-2-10 2-16 0-8-2-5 3-6-2-7 3-5 0-9-3-5 1-8-3-18 2-10-5-8 2-9-4-6 2-6-3-12-1-6-3-2 1-13-6-7 1-6-3-4 1-4-5-3-1zM709 638l-4-3-6 3-1 4 10-2zM372 635l0 2 8 3-2-5zM376 538l-4 3 1 4 3 1 4-3-1-4zM542 519l1 5 10 9 16 6 10 0-7-2-1-2 2-1 4 2 5-6 5 10 6-5 2 0 7 7 6-5 4 4 6-6 4 7 5 0 2 2 2 5 9-5 2 0 4 5 6-5 5 4 4 0 5 7 4-1 5 5 6-6 12 7 12 4 2 2-5 5 4 0 4 4-1 2-3 0 4 2 7-3 24 3 4-3 0-5 2-3-1-4-8 0-1-7-2 0-4-5-3-1-5 2-6-4-5 0-3-5-7 0-2-3-9-3-5-7-6 0-3-4-3-1-8 5-5-3-3-6-3-1-3 1-4 5-5-5-3-1-6 3-9-6-7 4-5-9-3-1-3 1-4 5-7 2-8-8-3-1-10 7-3-3-7-2-10 6-7-5-3 1z"/>
<path fill="#002ee8" d="M1044 321l-17 19-12 11-3 1-6 7-14 10-32 19-31 11-30 4-26-2-15-5-6 0-28-12-3-3-16-8-25-19-16-16-5-3-2-4-8-7-23-26-34-47-3-7-15-21-33-58-32-64-16 22-15 28-26 28-21 32-22 20-29 35-18 12-27 28-22 10-18 17-12 7-17 3-21 15-7 3-21 1-22 10-26-2-15 5-13-1-14-6-26 1-20-11-9-3-18-2-7-4-14-12-28-11-24-23-23-12-14-18-13-12 31 63 18 32 5 6 4 9 9 13 4 9 6 7 3 7 7 8 13 20 16 21 7 6 2 4 28 32 20 17 7 9 10 7 18 18 9 5 9 9 12 9 5 2 15 13 8 3 9 9 18 9 8 7 8 2 18 11 1 3 7 2 8 5 1-1 8 5 4-1 3 3 6 3 2-1 7 4 6-2 12 6 3-1 6 3 12 1 6 4 6-3 12 5 5-3 10 5 18-2 8 3 5-1 9 3 5 0 7-3 6 4 5-5 8 2 16 0 6-2 15 2 10-2 3-2 5 2 10 0 3-1 3-4 4-1 16 1 15-7 9 0 11-4 12-1 13-9 0 3 21-12 11-4 5-4 0-3 15-6 11-9 8-3 19-15 13-8 7-7 11-6 12-12 14-10 13-13 12-9 31-31 6-8 11-9 3-5 22-22 5-8 21-22 5-9 13-14 10-16 13-14zM545 520l3-3 6 6 9-6 4-1 4 3 3 5 11-10 10 10 5-3 5 0 5-6 5 10 4 1 6-5 7 6 2 4 6-7 9 8 6-8 4 7 9 4 6-6 5 7 4-3 5 8 5 0 4 2 4 6 5-3 4 7 4-2 9 7 5-4 4 7 2 0-2 3 11 4-3 4 2 3-5 1 2 1-1 1-21-3-8 4-15 2-19-7-27 0-21-12-20-2-11-5-17-14-17-5-8-4-9-8 2-1 3 3z"/>
<path fill="#0035e4" d="M1044 321l-17 19-12 11-3 1-6 7-14 10-32 19-31 11-30 4-26-2-15-5-6 0-28-12-3-3-16-8-25-19-16-16-5-3-2-4-8-7-23-26-34-47-3-7-15-21-33-58-32-64-16 22-15 28-26 28-21 32-22 20-29 35-18 12-27 28-22 10-18 17-12 7-17 3-21 15-7 3-21 1-22 10-26-2-15 5-13-1-14-6-26 1-20-11-9-3-18-2-7-4-14-12-28-11-24-23-23-12-14-18-13-12 31 63 18 32 5 6 4 9 9 13 4 9 6 7 3 7 7 8 13 20 16 21 7 6 2 4 28 32 20 17 7 9 10 7 18 18 9 5 9 9 12 9 5 2 15 13 8 3 9 9 18 9 2 2-2 1 3 3 7 4 6 1 21 13 4-1 14 8 25 5 9 5 4-2 10 7 4-4 5 3 6 0 4 2 3-1 11 3 6-1 6 4 4-3 19 4 4-2 8 2 12-1 8 4 6-5 10 4 5-2 7 2 4-4 8 3 11 0 7-3 12 3 5-6 17 2 5-3 20-1 15-3 15-6 8 0 26-8 8-5 10-3 0-2 8-4 3 1 4-2 9-8 7-2 11-9 8-3 19-15 13-8 7-7 11-6 12-12 14-10 13-13 12-9 31-31 6-8 11-9 3-5 22-22 5-8 21-22 5-9 13-14 10-16 13-14zM422 512l-2 3 2 1-22 16-15 9-22 10-18 6-8 1-8-1-3-4 1-2 11-2-3-4 1-2 10 3-4-9 1-2 15 3-3-6 1-2 27-2-4-5 13-4 10-5 16-3zM519 501l6-4 4 8-2 1-3-2 1 1-2 1-1-3zM528 506l7-6 4 6 12-10 5 9 5-5 6 2 5-3 4 5 6-7 5 9 5-5 9 6 6-4 5 7 6-7 4 5 8-4 7 7 6-5 4 4 5 1 4 8 6-6 5 0 4 6 6-7 27 18 6-6 4 3 5 0 4 6 5-2 4 4 5 2-5 5 16 6 9 1 1 1-5 6 3-2 5 4-1 3 6 4-4 2 2 1-15 8-8 2-24-3-8 4-15 2-19-7-27 0-21-12-23-3-8-4-17-14-17-5-8-4-25-23 2-1z"/>
<path fill="#003ce1" d="M1044 321l-17 19-12 11-3 1-6 7-14 10-32 19-31 11-30 4-26-2-15-5-6 0-28-12-3-3-16-8-25-19-16-16-5-3-2-4-8-7-23-26-34-47-3-7-15-21-33-58-32-64-16 22-15 28-26 28-21 32-22 20-29 35-18 12-27 28-22 10-18 17-12 7-17 3-21 15-7 3-21 1-22 10-26-2-15 5-13-1-14-6-26 1-20-11-9-3-18-2-7-4-14-12-28-11-24-23-23-12-14-18-13-12 31 63 18 32 5 6 4 9 9 13 4 9 6 7 3 7 7 8 13 20 16 21 7 6 2 4 28 32 20 17 7 9 10 7 18 18 9 5 9 9 12 9 5 2 15 13 8 3 9 9 10 5 10 9 5 0 2 3 5 2 2-1 9 8 4-1 5 4 8 1 11 9 3-3 6 4 8-1 10 6 4-2 11 5 10-1 6 4 5-2 10 7 2-4 3-1 9 5 5-3 6 3 12-2 13 6 5-6 14 4 9-1 19 4 3-4 10 1 6-2 8 0 3 2 7 0 5-3 30 0 8-3 14 1 14-6 12 1 16-8 8 0 10-4 7 1 14-7 8-1 10-7 10-4 18-14 8-3 9-6 10-9 13-8 7-7 11-6 12-12 14-10 13-13 12-9 31-31 6-8 11-9 3-5 22-22 5-8 21-22 5-9 13-14 10-16 13-14zM439 497l-4 4 2 1-7 7-3 1-7 8-6 3-5 5-24 15-22 10-18 6-22 3-14 0 0-2-3 0-5-5 5 0-3-2 1-1 10 2-4-8 4 0-3-4 12-3-3-7 10 0-3-4 1-1 19-1 2-1-3-3 1-1 7 0 14-5-3-3 1-1 11-2 16-9 19 0 11-5 5 3zM502 488l3-2 6 2 9-5 6 5 6-6 4 9 2 0 10-8 4 4 6-5 5 6 6-4 4 3 6-6 4 10 6-5 6 1 5-3 9 10 5-6 5 6 6-5 4 0 5 10 6-6 4 1 5 6 5-7 9 8 6-4 5 0 4 7 6-5 5-1 9 10 4-2 4 8 6-6 5-1 5 5 8 2 5 6 4-2 9 6 5 0 4 5-5 6 4-4 4 6 9-2 5 5-1 3 4 3-5 5 8 1-5 5 3-2 3 1 4 7-3 2 0 2-16 0-17 9-8 2-24-3-8 4-15 2-19-7-27 0-21-12-23-3-8-4-17-14-17-5-8-4-21-20-24-14-6-6 1-2z"/>
<path fill="#0043dd" d="M1044 321l-17 19-12 11-3 1-6 7-14 10-32 19-31 11-30 4-26-2-15-5-6 0-28-12-3-3-16-8-25-19-16-16-5-3-2-4-8-7-23-26-34-47-3-7-15-21-33-58-32-64-16 22-15 28-26 28-21 32-22 20-29 35-18 12-27 28-22 10-18 17-12 7-17 3-21 15-7 3-21 1-22 10-26-2-15 5-13-1-14-6-26 1-20-11-9-3-18-2-7-4-14-12-28-11-24-23-23-12-14-18-13-12 31 63 18 32 5 6 4 9 9 13 4 9 6 7 3 7 7 8 13 20 16 21 7 6 2 4 28 32 20 17 7 9 10 7 18 18 9 5 9 9 12 9 5 2 15 13 8 3 6 6-1 2 2 2 38 20 4-1 7 5 4 0 7 4 24 4 6 6 4-3 5 3 5-2 20 9 3-3 10 4 12-2 6 3 4-2 14 8 5-5 9 3 7-2 5 3 6-2 5 3 4-5 8 4 16 0 9 4 4-7 5 2 8-1 7 2 7-4 8 2 11 0 6-2 16 2 13-6 5 2 9 0 15-6 11-1 28-9 32-7 12-7 11-3 11-9 8-3 7-5 0-2 10-9 9-5 11-10 11-6 12-12 14-10 13-13 12-9 31-31 6-8 11-9 3-5 22-22 5-8 21-22 5-9 13-14 10-16 13-14zM456 480l-3 3 2 1-25 25-3 1-7 8-35 23-22 10-18 6-22 3-33-1-7-8 4 0-2-2 1-2 3 2-4-7 1-2 1 1 11-2-3-9 1-1 4 2-4-5 1-1 10 2-4-6 1-1 10 1-3-2 4-3 6-1-3-2 1-1 7 1 7-2 0-7 16 0 16-6-4-3 2-2 44-12 6 4 18-3 17-10 4 7zM490 474l12-8 5 8 11-9 5 6 6-5 5 9 5-4 5 2 10-5 6 2 6-6 4 8 6-5 4 6 6-6 5 6 8-4 3 2 3 8 6-4 5 1 6-5 4 5 6-5 9 9 6-4 4 0 5 8 6-5 4 1 5 4 5-6 5 6 4 0 5 7 6-8 5 5 17 11 6-9 5 7 7 1 6 6 4-2 5 6 4-1 9 6 3-1 1 1-4 6 3 2 17 3 1 1-4 7 3-3 7 5-3 3 8 3-3 4 2-2 4 5-5 3 8 0-3 3 0 3-6 5 2 1-3 2-7 1-3 2-16 0-17 9-8 2-24-3-8 4-15 2-19-7-27 0-21-12-23-3-8-4-17-14-17-5-8-4-21-20-24-14-17-18 0-4z"/>
<path fill="#004ada" d="M1044 321l-17 19-12 11-3 1-6 7-14 10-32 19-31 11-30 4-26-2-15-5-6 0-28-12-3-3-16-8-25-19-16-16-5-3-2-4-8-7-23-26-34-47-3-7-15-21-33-58-32-64-16 22-15 28-26 28-21 32-22 20-29 35-18 12-27 28-22 10-18 17-12 7-17 3-21 15-7 3-21 1-22 10-26-2-15 5-13-1-14-6-26 1-20-11-9-3-18-2-7-4-14-12-28-11-24-23-23-12-14-18-13-12 31 63 18 32 5 6 4 9 9 13 4 9 6 7 3 7 7 8 13 20 16 21 7 6 2 4 28 32 20 17 7 9 10 7 18 18 9 5 18 16 8 4 7 7 11 7 12 12 3-1 6 2 8 7 4-1 5 5 4-1 13 9 5 0 6 5 5-4 15 8 2-1 7 4 4-4 10 6 9-1 6 5 5-3 4 3 6-3 15 7 4 0 6-3 5 3 10 0 4 3 6-4 11 5 15 0 4-2 6 4 3-5 3-1 18 6 7-3 5 2 6-2 11 3 5-5 11 6 4-7 9 2 11 0 11-3 16 1 8-4 10-2 22 0 3-1 3-4 22-2 10-3 10-7 5 1-2 3 16-9 9-2 6-4 9-3 8-6 11-4 11-9 2-4 8-5 7-7 11-6 12-12 14-10 13-13 12-9 31-31 6-8 11-9 3-5 22-22 5-8 21-22 5-9 13-14 10-16 13-14zM814 537l-5 6 5 1-2 2 1 2-3 2 2 1-16 11-14 5-16 0-20 10-11 1-18-3-8 4-15 2-19-7-27 0-21-12-23-3-8-4-17-14-17-5-8-4-21-20-24-14-23-26-12-9-28 31-16 15-3 1-7 8-35 23-22 10-18 6-7 0-6 2-35 1-21-4-1-3-6-2 1-1-2-1-3-6 1-2 8 4-7-7 5 0-2-3 1-2 3 2-4-8 12 0-2-3 1-2 2 1-2-3 1-2 9 2-4-8 1-2 11 6-5-9 1-2 6 0 4 2-3-3 3-2 7-1-3-4 1-1 15 0-3-6 4-2 28-1 2-2-4-8 4-2 21 0 22-12 6 11 33-17 6 7 10-4 7-5 4 5 11-4 5 3 12-7 5 10 11-12 5 10 12-9 4 5 6-5 4 7 6-4 5 3 11-10 5 10 6-8 4 7 6-4 4 2 5 7 12-11 4 7 5 2 6-4 4 5 6-8 5 10 4 3 6-7 4 3 6-6 4 8 5 1 4 7 6-8 9 9 6-6 5 1 4 8 5-1 4 7 6-7 4 3 5 1 4 7 5-2 4 7 6-8 6 1 8 7 4-1 5 5 5 0 6 3 2 3-5 6 4-3 4 7 5-4 4 4 5 2-5 6 3-2 5 4 4-3 5 3-5 5 8 1-5 6 4-2z"/>
<path fill="#0051d6" d="M1044 321l-17 19-12 11-3 1-6 7-14 10-32 19-31 11-30 4-26-2-15-5-6 0-28-12-3-3-16-8-25-19-16-16-5-3-2-4-8-7-23-26-34-47-3-7-15-21-33-58-32-64-16 22-15 28-26 28-21 32-22 20-29 35-18 12-27 28-22 10-18 17-12 7-17 3-21 15-7 3-21 1-22 10-26-2-15 5-13-1-14-6-26 1-20-11-9-3-18-2-7-4-14-12-28-11-24-23-23-12-14-18-13-12 31 63 18 32 5 6 4 9 9 13 4 9 6 7 3 7 7 8 16 24 13 17 7 6 2 4 28 32 20 17 7 9 10 7 18 18 9 5 9 9 10 7 2 4 3 1 15 13 12 5 15 9 3-1 24 12 17 3 8 6 4-2 5 4 5-3 10 6 8-2 11 7 4-5 6 6 10-1 5 3 5 0 4-4 10 7 6-6 15 7 6-2 15 6 4-6 5 3 9 2 7-3 6 4 4-4 6 2 5-4 5 3 19 0 14 4 4-7 6 3 5-3 8 0 7 2 7-3 17 2 4-5 9 0 9 3 5-7 14-1 8 3 7 0 3-8 4-1 0-2 2 0 1 2 19 0 16-11 6 1-3 6 15-11 8-2 2 1 9-7 4 1 13-9 0-3 3 1 9-4 21-16 1-3 4-2 12-12 14-10 13-13 12-9 31-31 6-8 11-9 3-5 22-22 5-8 21-22 5-9 13-14 10-16 13-14zM831 539l-5 4 0 2-3 0-1 3-9 2-21 14-7 1-3 2-16 0-17 9-8 2-24-3-8 4-15 2-19-7-27 0-21-12-23-3-8-4-17-14-17-5-8-4-21-20-24-14-23-26-11-9-29 31-16 15-3 1-7 8-35 23-22 10-18 6-22 3-35-1-30-9-6-12 2-1 4 2-3-4 3 0 0-2 4 2-5-10 1-1 5 2-2-5 1-1 3 2-3-4 1-2 3 1-3-6 4 0-3-2 9-1 3-2 7 1-5-9 1-2 4 2-3-5 1-1 15 2-3-6 1-1 16 2-4-8 1-2 6 0 10 4-4-10 4-3 25 3-5-11 1-2 24 0 22-13 5 13 2 0 15-12 12-5 5 10 17-12 5 10 17-12 5 8 5-5 12-7 5 7 5-6 5 10 2 0 10-8 5 3 11-6 4 4 6-6 5 8 5-5 5 8 6-7 4 7 6-4 5 2 5-7 5 11 6-6 4 4 6-5 5 5 5-5 5 3 6-7 5 11 4-1 6-5 4 8 5 4 5-7 9 9 6-8 5 9 6-7 4 0 4 7 5 4 6-7 2 0 4 3 3 6 4 0 5 6 6-8 27 18 5-7 5 3 4-1 5 6 4-2 9 7-5 6 11 4 13 2 2 2-4 7 3-2 4 4 5-3 4 2-4 8 8-3 4 4-6 10 8 0-5 6 3 0 0 3z"/>
<path fill="#0059d3" d="M1044 321l-17 19-12 11-3 1-6 7-14 10-32 19-31 11-30 4-26-2-15-5-6 0-28-12-3-3-16-8-25-19-16-16-5-3-2-4-8-7-23-26-34-47-3-7-15-21-33-58-32-64-16 22-15 28-26 28-21 32-22 20-29 35-18 12-27 28-22 10-18 17-12 7-17 3-21 15-7 3-21 1-22 10-26-2-15 5-13-1-14-6-26 1-20-11-9-3-18-2-7-4-14-12-28-11-24-23-23-12-14-18-13-12 31 63 18 32 5 6 4 9 9 13 4 9 6 7 3 7 7 8 13 20 16 21 7 6 2 4 28 32 20 17 7 9 10 7 18 18 9 5 6 6-2 1 15 12 4 1 15 13 3-2 10 8 2-1 7 7 3-3 6 5 7 0 6 6 5-3 4 4 5-1 6 5 4 0 5 3 3-3 6 4 4-3 6 5 10 1 9 5 6-4 9 7 5-3 5 4 6-2 8 4 11-3 10 3 5 4 6-2 5 3 4-4 9 3 6-3 6 5 5-5 11 5 10-3 9 3 7 0 5 3 5-8 8 3 19-1 5 2 4-3 10 2 15-1 9 2 5-7 17 6 5-10 17 5 4-6 4-2 27 1 21-9 23-3 27-15 3 1-1 2 10-7 3 1-2 3 13-11 2 2 14-11 0-2 4-4 10-5 12-12 14-10 13-13 12-9 31-31 6-8 11-9 3-5 22-22 5-8 21-22 5-9 13-14 10-16 13-14zM241 534l4 0 1-1-2-3 3 0-4-7 1-2-2-3 2-1 2 2-3-6 3-1 6 3-7-9 13 0-5-11 1-1 4 2-3-2 1-1 10 1-3-4 4 0-4-6 1-1 16 2-4-4 1-1 11 1-4-9 1-2 10 5 6 1-4-12 3-1 14 4-4-9 1-2 35-1 15-7 16-2 13-4 11-8 13-6 2 1 4 9 17-13 6 12 16-15 5 11 2 0 9-7 6 5 16-11 5 7 6-5 5 5 11-6 4 3 6-6 5 12 5-6 5 4 12-8 9 10 11-11 5 9 6-8 4 7 6-4 3 1 6 9 6-6 4 6 6-7 5 3 5-5 9 11 7-5 4 2 4 6 6-7 5 7 4 0 6-6 4 8 5 1 6-5 9 8 6-8 4 6 4 0 5 8 4 0 5 4 6-7 4 5 5-1 4 8 5-2 5 6 4 2 4-1 5 7 4-3 5 6 9 0 4 6 5-5 4 6 4-1 1 1-5 6 3 0 5 4 4-4 5 5 1-1 1 2-3 4 6 0 2 2-5 5 5 3-1 2 3 3 3 0-3 4 4-1 4 3-5 4 6-3 2 1-5 4 3 2-4 5 2 1-2 2 3-2 3 3-6 3 1 1-13 8-11 2-19 13-14 5-16 0-17 9-8 2-24-3-8 4-10 2-9-1-15-6-22 1-8-2-18-11-23-3-8-4-17-14-17-5-8-4-21-20-24-14-23-26-12-9-28 31-16 15-3 1-7 8-35 23-22 10-18 6-22 3-35-1-26-7-10-5z"/>
<path fill="#0060cf" d="M1044 321l-17 19-12 11-3 1-6 7-14 10-32 19-31 11-30 4-26-2-15-5-6 0-28-12-3-3-16-8-25-19-16-16-5-3-2-4-8-7-23-26-34-47-3-7-15-21-33-58-32-64-16 22-15 28-26 28-21 32-22 20-29 35-18 12-27 28-22 10-18 17-12 7-17 3-21 15-7 3-21 1-22 10-26-2-15 5-13-1-14-6-26 1-20-11-9-3-18-2-7-4-14-12-28-11-24-23-23-12-14-18-13-12 31 63 18 32 5 6 4 9 9 13 4 9 6 7 3 7 7 8 13 20 16 21 7 6 2 4 28 32 20 17 7 9 12 9 16 16 7 4 0 2 8 8 38 22 31 12 5 0 6 6 9 0 4 3 4-3 11 9 4-3 5 0 10 7 4-3 10 5 10-2 6 4 9 0 6 5 4-6 10 7 5-5 6 5 4-2 6 4 6-4 9 6 4-8 6 4 10 3 6-2 5 3 5-2 5 3 6-6 8 4 18 1 5 3 5-6 5 2 5-3 11 4 5-5 6 0 8 3 12-2 18 2 5-7 17 4 5-6 23 0 4-3 13-2 10-4 15 0 10-2 17-8 11-2 5-3 15-4 14-8 0 3 12-10 2 1-2 3 4-2 9-8 10-5 11-11-2-1 15-11 13-13 12-9 73-75 5-8 21-22 5-9 13-14 10-16 13-14zM855 508l-6 9 3-1 1 1-3 3 2-1 3 2-7 10 2 1-6 6-18 9-11 2-23 15-7 1-3 2-16 0-17 9-8 2-24-3-8 4-10 2-9-1-15-6-27 0-21-12-20-2-11-5-17-14-17-5-8-4-21-20-24-14-23-26-11-9-33 35-12 11-3 1-7 8-6 3-5 5-28 17-36 14-22 3-26 0-18-3-6-3-11-2-21-10-1-3-4-3-5-10 1-2 2 1-2-2 1-2 3 2-4-6 1-1-4-8 3-1 1 2 2 0-2-5 3 0-2-2 2-1 3 2-4-9 2-2 12 0-4-8 1-2 3 2-3-6 1-2 10 5-4-8 1-2 10 3-4-3 11-3-3-2 1-1 10 1-4-9 1-2 16 4-4-9 22-1-3-6 1-1 6 0 15-6 25-1 19-10 17-4 9-4 7 7 22-12 5 9 17-13 5 10 2 0 9-7 5 4 11-5 5 4 12-9 5 9 11-10 4 7 6-5 5 10 5-6 5 4 12-7 4 3 6-7 4 10 6-5 5 6 6-6 4 6 6-5 4 3 6-7 5 11 7-6 5 4 3 6 5-7 5 6 6-8 4 8 6-6 5 0 4 10 6-7 3 1 6 7 6-7 9 10 6-5 4 0 5 8 3-5 4-2 3 1 9 11 4-1 6-7 5 7 7 3 6 7 6-9 26 16 18 8 11 2 8 4-5 8 8-1 4 4 2-1 1 1-3 4 4 5 4-4 8 3 1 2-3 3 2-2 4 5-5 5 6-1 1 1-4 5 6-1 2 2-2 2 1-1z"/>
<path fill="#0067cc" d="M1044 321l-17 19-12 11-3 1-6 7-14 10-32 19-31 11-30 4-26-2-15-5-6 0-28-12-3-3-16-8-25-19-16-16-5-3-2-4-8-7-23-26-34-47-3-7-15-21-33-58-32-64-16 22-15 28-26 28-21 32-22 20-29 35-18 12-27 28-22 10-18 17-12 7-17 3-21 15-7 3-21 1-22 10-26-2-15 5-13-1-14-6-26 1-20-11-9-3-18-2-7-4-14-12-28-11-24-23-23-12-14-18-13-12 31 63 49 83 36 49 7 6 2 4 28 32 20 17 13 15 5 2 12 12-1 2 4 4 15 9 10 9 5 2 6 0 7 7 3-2 6 6 6-1 13 10 4-1 5 5 5-3 7 4 5-1 11 7 14 0 10 6 5-4 10 9 5-5 10 5 5 0 4-4 6 6 7 0 8 4 4-4 6 4 7-2 8 5 4-6 6 5 13 0 8 5 4-4 6 3 5-4 6 4 7-2 8 2 5 3 5-8 6 3 5-1 10 4 5-3 22 3 5-4 6 4 4-8 11 3 24-1 3-2 12 1 4-4 10-1 14 2 4-4 10-3 25 2 3-7 2-2 3 0 0-2 2 2 4-1 11 2 24-12 2 2-3 6 17-12 10-2 4-3 1 1 4-3 10-3 9-7 17-9 19-14-1-2 28-24 31-31 6-8 11-9 3-5 22-22 5-8 21-22 5-9 13-14 10-16 13-14zM217 506l2-1 0-2 5 0-3-4 1-2 3 1-2-3 1-1 2 1-3-5 7 0-4-10 3 0 0-3 9 3-3-6 4 0-3-3 10 0-3-6 1-1 5 3-5-9 1-2 6 0 4 2-4-4 1-1 16 1-4-6 1-1 11 2-4-7 1-2 13-1 8 2-4-7 5-3 16-1 7 2 8 0-5-12 1-2 8 0 7 2 8-1 15-10 8-3 5 14 21-15 7-3 6-1 5 9 6-5 17-9 5 8 11-7 6 6 10-5 6-5 5 5 12-9 4 11 6-6 4 8 5-2 7-6 5 4 5-4 5 7 12-10 4 5 6-6 4 11 6-6 5 3 6-4 4 7 6-7 4 7 6-6 5 8 6-7 4 4 6-5 4 6 6-9 5 10 6-6 9 8 5-7 5 8 4 2 6-5 5 5 6-9 4 8 5 4 5-7 5 2 5 10 4-1 6-7 4 7 5 3 6-7 16 14 2 0 5-9 5 7 9 4 4 6 5-1 4 6 6-7 7 0 7 7 4-3 5 8 5-2 8 6-5 7 4-2 4 6 5-3 8 5 3-1 1 1-4 6 2 2 14 0 1 1-5 7 5 2-2 3 4 5 4-6 5 3-5 6 4 0 1 2-2 3 4 1-5 4 5 2-2 3 3-2 4 2-5 8 1 2-3 2 4 2-5 4 1 2-17 15-18 9-11 2-23 15-7 1-3 2-16 0-17 9-8 2-24-3-8 4-10 2-9-1-15-6-27 0-21-12-20-2-11-5-17-14-17-5-8-4-21-20-24-14-23-26-11-9-33 35-12 11-3 1-7 8-6 3-5 5-28 17-36 14-22 3-26 0-18-3-6-3-11-2-37-19 1-2-3-2 0-4-1 1-2-3 1-2-3-5 2-1 2 2-3-4 1-1z"/>
<path fill="#006ec8" d="M1044 321l-17 19-12 11-3 1-6 7-14 10-32 19-31 11-30 4-26-2-15-5-6 0-28-12-3-3-16-8-25-19-16-16-5-3-2-4-8-7-23-26-34-47-3-7-15-21-33-58-32-64-16 22-15 28-26 28-21 32-22 20-29 35-18 12-27 28-22 10-18 17-12 7-17 3-21 15-7 3-21 1-22 10-26-2-15 5-13-1-14-6-26 1-20-11-9-3-18-2-7-4-14-12-28-11-24-23-23-12-14-18-13-12 31 63 49 83 36 49 7 6 2 4 28 32 22 21 8 10 3 2 4 0 2 2-2 1 14 14 2-1 9 5 6 7 4-1 5 6 9 3 4 4 5-1 4 5 6 0 8 5 4-2 5 5 4-2 9 4 6 6 4-3 5 6 4-6 11 9 9-2 10 6 10-1 8 4 6-1 6 5 4-5 5 5 6 3 4-5 2 0 8 5 5-2 6 4 4 0 5-6 16 10 4-6 6 5 5-2 5 3 5-3 4 0 6 4 5-8 11 9 5-3 11 0 5 3 5-3 5 2 5-6 12 8 4-7 7 1 8 4 7-1 5-4 11 5 5-5 12 2 4-4 11 4 7 0 4-8 12 5 4-8 7-1 1-2 2 3 14 4 3-7 5-2 26 2 22-10 19-1 10-4 20-13 4 0-3 6 10-9 9-3 0 3 7-6 0 3 13-9 3-5 6 0 6-6 7-4 12-12-2-1 13-10 73-75 5-8 21-22 5-9 13-14 10-16 13-14zM878 500l-6 7 1 2-2 2 3-2 2 1-4 5 2 1-12 6-18 16-18 9-11 2-23 15-7 1-3 2-16 0-17 9-8 2-24-3-8 4-15 2-19-7-27 0-21-12-20-2-11-5-17-14-17-5-8-4-21-20-24-14-23-26-11-9-33 35-12 11-3 1-7 8-6 3-5 5-24 15-22 10-18 6-7 0-6 2-44 0-26-7-13-6-30-17 2-1-3-2-14-30 1-1 5 3-2-4 2-1 2 2-3-3 1-2 3 2-3-5 1-2-4-10 2-1 8 7-3-5 5 0-3-3 4 0-2-3 1-2 3 1-4-8 1-1 11 7-5-10 12-1-3-6 1-2 10 5-4-9 3-1 8 2-3-5 1-2 9 3 7 0-5-11 1-1 11 5-5-10 1-2 8-1 15 5-5-10 4-3 27 2 21-10 25-3 15-10 14-7 5 12 12-11 9-5 2 1 4 10 3-1 9-9 4 11 2 0 9-6 7-7 4 8 12-8 5 8 11-10 4 8 2 0 10-7 5 2 6-4 5 10 11-13 4 9 6-5 5 8 5-6 5 5 6-5 4 7 12-15 4 11 6-6 6 5 3 7 6-7 5 6 5-7 5 9 6-6 4 1 6-6 5 9 4 4 6-7 4 6 6-7 6 4 3 8 6-6 4 0 5 9 6-8 9 7 6-6 9 9 5-6 5 1 4 6 8 6 7-9 5 9 4-2 5 8 6-9 9 5 4 6 4-1 5 6 9 3 4 4 5-1 4 5 6 0 8 5 4-2 5 5 4-2 7 3 2 2-5 7 4-2 5 7-1 3 4 2 5 0 4-2 4 3-5 6 8 0-5 6 7 0 1 1-5 6 4-4 4 4-1 2 4 2-4 5 1 2-3 4 2 0z"/>
<path fill="#0075c5" d="M1044 321l-17 19-12 11-3 1-6 7-14 10-32 19-31 11-30 4-26-2-15-5-6 0-28-12-3-3-16-8-25-19-16-16-5-3-2-4-8-7-23-26-34-47-3-7-15-21-33-58-32-64-16 22-15 28-26 28-21 32-22 20-29 35-18 12-27 28-22 10-18 17-12 7-17 3-21 15-7 3-21 1-22 10-26-2-15 5-13-1-14-6-26 1-20-11-9-3-18-2-7-4-14-12-28-11-24-23-23-12-14-18-13-12 31 63 49 83 36 49 7 6 2 4 28 32 8 7 3 6 7 5 5 6 3 1 3-1-12-12 1-1-5-9 1-2 3 2-4-6 2-2-3-5 1-2 2 0-6-6 2-1 3 2-3-7 1-1 3 3-3-4 6 0-4-9 1-1 9 6-3-5 2-1 3 2-4-8 8 0-4-9 2-1 9 7-5-10 1-1 10 4-3-4 1-2 3 1-3-6 1-2 10 1-4-3 1-1 14 0 2-1-3-3 1-1 10 1-5-11 1-2 10 5 10 1 3-1-5-9 1-2 20 1 20-4-4-8 1-2 17-1 18-6 9-5 3 2 4 7 23-8 17-11 5 11 10-5 13-12 4 12 2 0 10-8 5 5 9-3 8-5 4 4 12-8 5 8 5-5 5 7 12-10 4 10 12-14 4 11 6-4 5 3 5-5 5 9 6-6 4 7 12-13 4 9 6-6 5 3 6-4 4 6 6-8 4 9 6-6 9 10 6-6 5 9 5-9 5 6 7-5 5 4 3 6 6-7 4 6 5 2 5-7 5 9 6-10 13 16 6-8 4 6 5 1 6-8 4 9 5 0 4 7 6-8 8 5 6 7 5-10 6 6 21 15 6-7 5-1 5 5 8 2 5 6 4-2 5 5 9 0 4 7-5 5 25 5 1 1-5 8 4-2 4 3 5 0-5 7 3-2 5 5-1 3 7 2-3 6 10-2 1 1-5 10 3 2 3-1 1 1-2 2 2-1 4 3-4 4 1-1 1 2-6 8 7 0-5 6 1 2-2 1 2 2-3 2 2 1-12 10-15 8-14 13-18 9-11 2-13 9-7 2-7 5-6 2-16 0-17 9-8 2-24-3-8 4-15 2-19-7-27 0-21-12-23-3-8-4-17-14-17-5-8-4-21-20-24-14-23-26-11-9-33 35-12 11-3 1-7 8-6 3-5 5-28 17-36 14-22 3-35-1-26-7-12-6-4-4-7-1-4-4-8-4-7 0 25 18 4-1 6 6 5 2 7 6 4-2 5 4 8 1 5 5 15 6 18 2 6 7 5-3 4 3 5-1 5 6 5-3 4 5 5-6 8 7 3 1 4-2 6 5 13-4 6 7 5-4 9 5 5-2 6 4 4-4 11 5 4-3 6 6 5-5 5 3 10-1 5 3 5-6 6 6 4-3 8 1 8 5 6-6 10 7 5-4 6 4 4-6 16 6 5-8 12 8 4-6 11 3 5-2 6 1 5-4 9 2 21 0 6-2 14 2 4-8 11 4 9 1 3-1 5-7 24 1 4-2 13-2 4-5 25-3 20-9 1 2-2 2 3-2 8-1 16-7 10-7 2 1-3 5 14-9 7-8 1 2-3 6 8-5 6-6 9-4 9-10 13-9 5-5-1-1 3-4 14-12 20-23 7-5 7-9 22-22 5-8 21-22 5-9 13-14 10-16 13-14z"/>
<path fill="#007cc1" d="M1044 321l-17 19-12 11-3 1-6 7-14 10-32 19-31 11-30 4-26-2-9-2-1-3-5-2-6 0-26-11-22-14-2 1-22-16-16-16-5-3-2-4-8-7-23-26-34-47-3-7-15-21-33-58-32-64-16 22-15 28-26 28-21 32-22 20-29 35-18 12-27 28-22 10-24 21-6 3-17 3-8 6-3-1-12 9-5 2-17 0-26 11-9 0-7-2-1 2-14 1-10 4-13-1-14-6-26 1-20-11-9-3-18-2-7-4-14-12-28-11-24-23-23-12-14-18-13-12 31 63 49 83 36 49 7 6 2 4 20 22 6 11 20 17 7 9 21 15 2-1 7 7 4-2 9 9 3-1 6 7 4-3 5 5 9 0 5 6 4-4 5 5 4-1 6 6 4 0 5 3 3-3 6 4 4-3 6 7 14-1 6 7 4-4 5 3 4-2 6 5 4-2 11 7 4-5 10 6 9-4 6 5 5-3 10 7 5-8 5 5 6 1 5 3 4-2 6 4 5-2 5 5 5-7 10 6 5-7 6 5 4-3 6 3 5-4 5 3 6 0 8 4 7-4 6 5 4-7 20 5 7-4 6 3 5-3 11 4 4-8 12 7 4-8 14 3 21-2 3-2 18 1 5-5 29 2 5-9 24 2 20-9 26-3 17-12 5 0-3 5 25-15 2 1-2 2 10-5 11-8 13-6 7-7 2 1 11-9 1-5 3-3 1 2 30-34 11-9 3-5 22-22 5-8 21-22 5-9 13-14 10-16 13-14zM900 459l-7 10 3 4 4 2-5 5 3 0-4 5 2-1 3 3-5 6 3 1-8 9 2 1-8 4-10 9-11 5-15 13-9 3-8 7-3-1-8 2-11 8-4 0-12 8-7 1-3 2-16 0-20 10-29 0-12 5-4-2-11 2-15-6-27 0-21-12-20-2-11-5-17-14-17-5-8-4-21-20-24-14-23-26-11-9-33 35-12 11-3 1-7 8-20 14-15 9-22 10-18 6-22 3-34-1-6-4-21-5-34-17-30-22-2-6-8-12 1-1-6-12 1-2 5 2-3-3 1-2 2 2 3 0-6-15 1-3 3 2-3-4 4 0-3-5 3 0-1-1 2-1 7 3-2-4 1-2 4 3-5-11 1-1 4 2-2-2 2-1 7 3-3-6 1-2 4 2-3-4 1-2 10 3-5-10 1-1 11 7-4-11 1-2 9 3-3-4 1-1 15-1-3-5 1-1 16 1-4-7 1-2 28 1-4-10 1-2 23 2 22-10 25-3 22-15 6 13 14-10 14-7 5 9 17-10 5 6 5-4 12-5 5 5 5-6 6-3 6 11 10-12 5 10 5-2 7-7 4 7 6-5 4 8 12-10 5 4 5-5 5 10 6-7 4 8 12-10 4 4 6-6 5 8 6-6 4 7 6-9 4 10 6-5 5 1 4 10 6-6 5 5 5-7 5 7 6-6 4 3 6-9 5 11 3 2 7-7 4 8 6-8 9 11 6-6 6 2 3 8 6-7 2 0 4 3 3 5 6-8 4 6 6 2 3 7 6-10 13 13 6-9 5 6 4 0 5 8 4 0 5 4 6-8 4 5 5-2 5 9 4-2 8 8 5-1 4 7 5-3 4 5 9 0 5 6 4-4 5 6 3 1-4 6 4 0 4 4 5-4 4 5 3-2 1 1-4 7 13 1-5 8 3-3 7 4-3 5 4-2 4 3-3 4 2-2 4 4-4 5 6-3z"/>
<path fill="#0083bd" d="M897 502l-4-1-4 2-18 16-12 5-17 13-16 8-8 1-7 3-9 6-4 6 6 0 6-3 14-11 1 2-3 5 10-6 10-9 0 4 12-9 2 0 18-14 2 1 0 2zM276 554l11 8 9 0 4 3 5-3 10 10 5-3 4 0 10 8 4-3 2 0 3 3 5-4 6 6 9-1 9 6 5-5 11 8 4-5 6 5 9-1 6 4 4-3 6-1 9 3 6 5 5-4 5 4 5-3 5 0 5 3 5-4 6 7 4-7 6 3 4 0 6 4 5-3 6 3 4-4 6 5 4-7 20 8 7-4 6 4 4-5 12 5 4-5 6 3 5-4 8 0 14 4 4-8 12 6 4-7 18 5 4-5 10 3 8 0 4-7 11 4 13 1 5-9 10 4 10 0 8-3 5-6-14-2-8 4-15 2-7-3-4 1-8-3-22 1-8-2-18-11-23-3-8-4-17-14-17-5-8-4-21-20-24-14-23-26-11-9-29 31-16 15-3 1-7 8-39 25-36 14-22 3-7 0-2-2-26-1zM1044 321l-5 7-33 31-23 16-23 13-31 11-30 4-9-3-17-1-12-3-5 7 4 3 9 0 4 3 3 0-3 4 3 6 7-3 7 4-3 4 1-1 7 4-3 6 8 0-4 6 4 3-1 2 3 3 2 0-2 4 3-2 5 2-5 5 5-3 2 1-4 4 4 2-6 9 3-2 4 1-7 11 3 1-6 7 5 0 10-6 1-4 31-32 5-8 21-22 5-9 13-14 10-16 13-14zM31 261l31 63 18 32 5 6 4 9 9 13 4 9 6 7 3 7 7 8 13 20 16 21 7 6 8 10 3 7 17 20 12 11 3 1 10 12 2-1 6 3 9 8 3 0-28-21-15-16-6-11 2 0-3-3 2-1-7-9 4 0-2-3 1-2 3 2-4-7 2-3 1 1-4-10 3-1 1 2 2 0-2-3 1-2 3 1-3-4 1-1 4 3-5-10 6 0 7 3-4-7 2-1 3 2-3-5 1-2 10 4-4-7 4 0-3-6 9 0-2-1 1-1 5 1-3-8 1-3 9 5-4-9 1-2 16 5-4-8 1-2 16 4-4-10 1-2 14 6 8-1-4-12 1-1 14 5 12-3 1-2-4-8-13-1-15 5-9 0-5-2-2 2-11-5-26 1-20-11-9-3-18-2-7-4-14-12-28-11-24-23-23-12-14-18zM806 372l-4-5-20-14-8-8-3 1-7-8-3-1-4-6-8-7-23-26-27-39-7-8-3-7-15-21-4-9-14-22-47-91-16 22-15 28-26 28-21 32-22 20-29 35-18 12-27 28-22 10-14 13-2-1-10 8-8 3-13 2-12 8 3 9 3 1 14-5 12-12 5 12 4 0 7-4 12-12 5 11 2 0 15-12 5 9 17-14 6 10 10-12 5 11 6-3 4 3 12-8 4 8 6-7 5 10 11-11 5 9 6-8 5 8 11-9 4 2 6-5 5 10 6-8 4 8 6-6 4 7 6-6 5 4 6-6 4 9 6-8 4 7 6-5 4 2 5 9 6-8 5 9 5-9 5 4 6-6 9 12 6-6 9 9 5-8 5 8 4 1 6-8 5 9 4 3 6-8 9 10 6-10 4 8 6 1 3 7 6-7 5 1 9 11 4-1 6-8 4 7 5 1 9 8 4 1z"/>
<path fill="#008aba" d="M903 497l-8 0-7 9-6 2-11 8-11 5-10 8-7 8 11-4 8-7 11-5 14-12 1 1 0-2 5-4 2 1-1 1zM308 558l6 5 7 2 6-3 4 2 6 8 5-5 2 0 8 6 5 1 4-5 11 7 9-3 5 5 4-2 5 0 6 6 5-7 10 8 5-6 5 6 5-2 6 5 4-4 10 6 6-8 5 4 10 4 5-3 6 4 4-3 6 4 4-6 6 4 6 0 4 2 5-4 6 5 3-6 2-1 11 7 5-3 5 3 5-4 5 2 5-2 12 6 3-7 3-1 10 8 5-8 10 3 5-2 12 2 5-5 12 3 4-3 9 0 6-2 6 2 8 0 15-5-15-6-22 1-9-3-3 1-14-9-20-2-11-5-17-14-17-5-8-4-21-20-24-14-23-26-11-9-29 31-16 15-3 1-7 8-35 23-22 10-18 6-8 1-4-2-10 2zM1044 321l-5 7-33 31-23 16-19 11-35 13-10 1-1-2-27 4-3 6 8 2 4-4 5 3-4 7 2-2 5 2-5 8 3 0 5-4 4 4-5 6 6-2 1 2-3 4 8 0-7 9 5 4-2 2 2 2-3 3 2 1-3 4 6 3-9 14 3 2-4 2 4 1 4-2 8-12 22-22 5-8 21-22 5-9 13-14 10-16 13-14zM31 261l31 63 49 83 36 49 7 6 1 6 22 25 4 2 7 9 4 1-17-17-14-27 1-2 3 3-2-2 1-2 3 2-3-3-3-10 1-3 4 2-2-3 1-2 3 2-3-3 1-2 4 3-4-8 2-2 4 2-2-4 1-2 3 3-5-10 1-1 10 5-2-4 4 0-3-4 1-2 3 1-2-2 1-2 9 4-3-8 1-3 9 7-4-11 1-2 10 4-4-5 1-1 10 2-4-8 1-1 10 3-4-6 4-2 7 0-2-3 1-2 10 1 8-2 2-2-3-4-11-5-15-1-15 3-20-11-9-3-14-1-8-3-17-14-28-11-24-23-23-12-14-18zM775 347l-9-10-5-3-2-4-8-8-2 1-23-25-34-47-3-7-15-21-4-9-23-38-38-75-16 22-15 28-26 28-21 32-22 20-23 29-11 10-13 8-25 26-9 6-3-1-14 6-16 15 4 6 13-4 9-8 5 6 12-5 4 7 12-9 4 8 12-8 4 7 12-10 5 11 11-14 5 11 3-1 8-9 5 5 6-5 4 8 6-6 5 7 11-12 5 10 6-8 4 8 6-5 4 4 6-7 5 10 6-7 4 7 6-7 4 7 6-6 5 3 6-8 4 12 4 3 6-7 5 8 6-8 4 6 6-9 5 10 4 2 6-9 4 10 6-8 7 6 2 4 6-8 9 11 6-6 2 0 4 3 7 10 6-9 6 4 3 7 6-9 5 1 4 8 9 6z"/>
<path fill="#0091b6" d="M916 482l-2-1-5 2-19 20-9 4-9 9 4-2 1 2-2 3 22-19 1 1 3-2zM330 557l6 5 9 0 6 6 4-5 5 5 4-7 6 6 3 1 6-2 6 5 5-2 5 7 6-5 9 8 5-7 6 5 9-2 5 4 5-3 6 6 4-6 11 5 4-6 6 5 4-3 6 4 6-3 5 3 4-1 6 5 4-8 21 7 6-3 6 4 4-3 6 3 4-8 6 5 5-4 26 6 2 0 4-5 6 3 5-5 10 4 7 1 5-5 11 6 6-11 10 6 5-6-13 0-7-4-3 1-11-7-23-3-8-4-17-14-17-5-8-4-21-20-24-14-23-26-11-9-33 35-12 11-3 1-7 8-20 14-15 9-22 10-13 4-4-1zM931 396l-16 3-5 6 2 2 5 1-4 7 4-4 5 5-1 2 7 1-4 5 2 2-3 5 3-3 5 2-7 10 5 0 1 1-2 3 1-1 1 2-5 7 4 4-3 3 2 1-6 8 0 5 4-1 14-14 2-10-1-7 3-5-1-6 4-6-4-9-3-1-3-7-2 0-3-6-2-1zM31 261l31 63 18 32 18 28 4 9 29 42 13 16 5 8-1 1 4 3 8 11 10 9-3-6-7-6-2-4 2-1 2 2-6-12 1-2 1 1-5-5 1-2 3 0 2 2-7-15 1-3 3 2-3-4 2-1 2 2-2-3 1-2 5 2-4-11 3 0-1-1 2-1 7 4-2-5 4 0-3-4 2-1 3 2-3-9 2-1 2 2-4-6 1-1 10 3-3-2 1-1 9 2-3-6 1-2 4 2-4-7 1-2 16 5-4-7 1-2 11 5-5-13 1-1 10 4-3-6-12-1-7-4-3 1-10-6-9-3-18-2-7-4-14-12-28-11-24-23-23-12-14-18zM752 325l-1-3-9-10-16-14-34-47-3-7-15-21-33-58-32-64-16 22-15 28-26 28-21 32-22 20-29 35-18 12-18 18-1-1-10 10-9 5 4 7 11-11 5 14 11-11 5 9 17-14 5 9 5-6 5 9 12-9 4 3 12-9 4 8 6-7 5 10 5-5 5 7 6-6 4 7 12-11 4 4 6-7 5 12 6-7 4 4 6-5 4 7 6-8 5 8 6-8 6 11 3 1 5-6 5 10 6-10 4 8 6-7 9 10 6-8 4 9 6-8 6 4 3 7 6-9 5 6 5-8 9 9 6-9 5 10 5 1 4 9 6-10 9 8z"/>
<path fill="#0098b3" d="M344 555l10 6 5-5 9 7 5-2 6 5 5-4 10 6 9-4 6 4 9-3 6 5 4-7 6 6 10 4 5-3 6 6 4-5 6 4 4-3 5 0 6 4 4-8 6 6 6-3 3 2 6-1 6 4 4-5 12 7 4-4 6 4 5-7 22 7 4-5 6 5 5-7 11 5 6-5 11 6 4-7 14 2 15 0 3-2-6-5-14-6-1 2-10 0-8-2-8-4-17-14-17-5-8-4-21-20-24-14-23-26-11-9-33 35-12 11-3 1-7 8-6 3-5 5-28 17-18 8-3-2zM945 391l-17 6-5 6 5 3-1 3 8 1-5 6 3-3 5 3-4 5 4-3 2 1-4 5 6-2 2 1-6 8 3 4-3 3 1 1-4 6 0 2 2-2 2 2-4 5 2 1-3 2 4 0-8 10-8 6-3 5 0 4-3-1-9 4-18 20 10-5 13-13 11-8 18-20 5-8 0-7 7-14-1-3 4-8-4-4 0-7-5 0-2-3 2-4-1-4-2-1zM31 261l31 63 18 32 18 28 4 9 27 38 7 14 9 12 11 11-3-4 1-2-3-7-7-9 1-2 2 2-4-4 1-2 2 2-4-7 2-2 3 3-2-4 1-1 3 3-3-6 1-1 3 2-6-7 1-2 3 2-4-7 1-2 3 3-3-6 1-1 3 2 0-3 2 2-4-7 2-1 8 5 0-5 4 3-5-11 2-1 11 3-3-6 2-1 2 2-4-9 1-1 10 4-3-5 2-2 9 5-5-11 1-1 4 2-3-3 1-1 13 1 2-2-4-5-13-7-6-2-2 2-19-3-7-4-14-12-28-11-24-23-23-12-14-18zM739 310l-14-18-3 0-10-13-38-56-33-58-32-64-16 22-15 28-26 28-21 32-22 20-29 35-17 12-3-1-19 20 2 4 3 2 16-10 5 4 6-5 5 11 11-12 5 9 11-11 5 10 5-7 5 9 12-9 4 3 6-6 4 10 6-6 5 8 11-14 5 10 6-8 4 6 6-6 5 7 5-9 5 11 6-6 9 12 6-7 4 8 6-9 4 8 6-6 5 3 6-9 4 10 6-8 9 11 6-7 9 13 5-7 6 3 3 7 6-8 5 6 4 2 6-8 5 9 3 1z"/>
<path fill="#009faf" d="M929 469l-5 0-9 10-8 4-4 11 10-10 5-3zM357 550l6 7 9-5 10 8 5-8 6 6 3 1 6-3 5 5 5-3 6 7 3-5 3-1 3 1 6 6 4-8 6 6 4-1 6 4 5-3 6 4 4-2 6 6 4-8 6 4 5 1 4-8 12 11 4-5 6 4 5-6 6 4 5-1 4 2 5-5 6 5 5-7 6 2 5 4 5-3 6 3 4-5 11 4 6-1 4 2 7 0 5-5 11 7 5-10-3-2-11 0-8-2-8-5-5-1-12-10-17-5-8-4-21-20-24-14-23-26-11-9-29 31-16 15-3 1-7 8-35 23-9 4-3-1-10 5zM957 387l-15 5-5 8 4-2 2 1-3 6 4 2-1 2 5 2-2 3 2-1 0 3 5 2-6 8 2 2-3 4 1 1-3 4 0 3-3 3 3 3-10 15 2 1 11-11 7-10 6-15 0-4 5-10-1-4-2-1 1-4-4-4 2-7-4-3zM31 261l31 63 18 32 5 6 4 9 9 13 4 9 6 7 3 7 14 18 0 5 14 19 6 5-7-10-2-6 0-4 1-1 2 2-6-15 2-1 3 2-2-4 1-1 2 2 0-3 3 3-7-19 2-1 9 8-3-6 2-1 2 2-4-8 2-1 2 2-2-2 1-1 4 1-3-5 1-2 4 3-5-11 1-1 10 6-3-3 1-2 4 1-4-7 1-1 9 4-2-3 1-2 9 2-3-6 1-2 10 6-5-14-5-2-8 0-15-3-16-13-28-11-24-23-23-12-14-18zM725 294l0-2-13-18-4-1-16-22-3-7-15-21-33-58-32-64-16 22-15 28-26 28-21 32-22 20-29 35-3-1-18 13 3 14 6-5 6-8 5 10 11-9 5 5 11-10 5 9 6-6 4 7 12-13 4 11 6-8 5 10 6-5 4 5 6-8 4 9 6-6 5 9 11-16 6 12 3 2 6-8 5 12 6-7 4 5 6-7 4 7 6-7 5 5 6-9 4 12 6-9 6 6 3 7 6-10 4 7 6-8 5 8 4 2 6-9 4 11 3 2 2 0 6-8 4 8 5 5z"/>
<path fill="#00a6ac" d="M371 545l5 8 5-6 2 0 8 7 5-4 6 6 4-4 10 4 5-3 6 7 3-5 6-2 6 5 4-3 6 5 4-6 6 6 5-3 6 3 4-1 6 6 4-8 6 4 5-2 6 4 4-4 6 3 4-2 6 5 5-10 6 4 5 0 10 4 5-3 6 3 5-4 11 5 5-5 6 4 5-9 11 5 4-1-10-4-3-3-4 0-14-11-15-4-8-4-21-20-24-14-23-26-11-9-29 31-16 15-3 1-7 8-30 20-3-1zM943 455l-2-2-21 20 7-2zM972 380l-17 7-5 9 4-4 4 1-6 12 6-3 2 2-3 3 1 2-2 3 4-2 2 1-5 6 2 1-5 7 2 1-3 3 2 1-5 6 2 2-9 12 2 1 3-1 1-3 11-11 9-17-1-3 3-5-2-5 3-9-4-4 0-3zM31 261l31 63 18 32 18 28 4 9 6 7 4 8 0 4 15 21 6 6-5-9 1-2 2 2-4-7 2-2 1 1-6-10 1-2 2 2-3-4 1-1 3 2-2-3 1-2 2 2-2-3 1-2 5 2-3-9 1-1 2 2-2-3 1-2 3 2-3-5 6 0-4-12 2-1 2 2-2-2 2-1 8 3-2-4 2-1 2 2-4-7 1-2 10 5-3-6 2-1 3 3-5-11 1-2 10 4-3-4-6-1-7-5-2 1-12-10-28-11-24-23-23-12-14-18zM712 276l0-2-11-16-9-7-3-7-15-21-33-58-32-64-16 22-15 28-26 28-21 32-17 15-23 27-2-1-5 7-8 7 4 5 12-11 4 12 6-7 5 9 11-11 5 9 5-7 5 7 12-10 4 5 6-8 2 3 2 10 6-7 5 6 6-6 4 8 6-7 4 7 6-8 5 11 6-8 4 5 6-6 4 7 6-9 5 10 6-8 4 7 6-8 5 6 4 9 6-10 4 7 6-7 6 5 3 7 6-9 4 8 6-9 6 4 3 8z"/>
<path fill="#00aea8" d="M384 539l6 5 4-3 10 7 6-8 5 5 5 1 5 4 5-3 6 6 4-4 6 6 5-7 10 6 4-8 6 7 5-4 6 4 4-3 6 4 4-2 6 4 5-8 6 6 4-4 5 2 5-1 12 8 5-7 5 4 5-5 12 8 4-8 6 3 21-1-20-15-2 2-21-8-21-20-24-14-23-26-11-9-29 31-16 15-3 1-7 8-20 14-5 0zM980 375l-10 5-6 8 1 1-2 4 6 5-4 5 1-1 1 2-4 5 3-1 2 2-5 8 2 1-5 11-19 22-2 5-5 4 7-4 11-11 5-8 8-7 8-10 3-8-1-7 5-14-1-4-3-2 4-8zM31 261l31 63 18 32 18 28 5 14 9 14 8 7-3-4-3-10 1-1 4 4 0-3 2 2-2-2 1-2 3 3-7-17 1-2 3 3-2-4 4 0-3-3 2-1 2 2-2-3 1-1 3 2-3-9 1-1 3 3-3-5 4 0 0-3 8 5-4-9 2-1 3 2-3-5 2-1 9 6-5-11 1-1 3 2-2-3 1-1 8 2 1-1-6-7-10-8-6-3-3 1-8-2-13-6-24-23-23-12-14-18zM699 256l-5-6-3-7-8-6-2-5-7-9-33-58-32-64-16 22-15 28-26 28-21 32-22 20-2-1-19 23 4 7 11-8 5 6 6-7 5 11 11-13 4 8 6-6 5 10 11-13 5 5 6-5 4 8 6-9 4 11 6-6 5 6 6-7 4 7 6-7 4 8 6-10 5 11 7-6 4 3 4 9 5-8 5 8 6-9 4 7 6-7 5 3 5-9 6 13 3 2 6-8 5 7z"/>
<path fill="#00b5a5" d="M393 533l6 8 4-6 10 6 5-6 6 6 5-3 5 6 6-3 5 3 4 0 6 6 5-9 5 5 5 0 4-6 6 5 5-4 6 6 3-6 2-1 20 10 6-5 5 6 5-7 6 4 4-5 6 4 6-3 9 4 6-2 6 4 4-10-11-5-6 0-8-3-21-20-24-14-23-26-11-9-29 31-16 15-3 1-7 8-6 3-5 5-5 0zM968 425l-3 0-2 4-9 8-4 11 7-10 8-7zM1044 321l-5 7-33 31-14 10-5 0-10 7-3 7-3 3 6 5-4 5 2 1-3 4 2 1-5 6 4 2 0 2-3 3 1 3-2 2 2 1 4-2 6-13 9-9 14-21 13-14zM31 261l31 63 32 54 0 4 6 12 10 11-5-12 1-1 3 3 0-7 4 3-3-10 1-1-3-6 3 0-2-3 1-2 4 4-5-10 1-1 12 6-3-6 1-1 4 4-5-10 1-1 5 3-3-5 1-2 2 1-2-3 3-1 7 2-2-2 1-2 3 3-5-14-8-4-6-1-1 2-10-5-24-23-23-12-14-18zM690 242l-9-14-3 0-22-36-47-91-16 22-15 28-26 28-21 32-10 10-3-1-12 12 3 14 6-7 4 6 12-10 5 7 5-7 5 9 6-7 4 10 6-8 5 9 11-12 5 3 6-7 4 10 6-8 4 8 6-7 9 14 6-9 5 13 5-9 5 5 6-7 4 7 6-9 5 7 5-8 5 10 4 2 6-8 5 10z"/>
<path fill="#00bca1" d="M402 527l6 8 4-5 6 5 5-3 4 0 6 5 5-8 5 7 5-3 6 4 4-2 6 6 5-5 5 4 5-5 6 6 5-4 5 3 5-1 5 5 5-9 6 4 4-2 6 4 5-5 5 3 5-3 12 8 4-8 6 4 4-5-5-1-9-6-6-2-18-17-20-11-23-26-11-9-29 31-16 15-3 1-10 10-3-1-7 6zM1044 321l-5 7-33 31-8 5-1-2-11 8-3 6 1 1-4 5 4-3 4 1-6 9 2 1-3 3 2 2-4 5 1-1 1 2-3 2 1 1-4 5 1 2-3 3 0 2-11 14 2-2 1 1-2 4 26-32 0-3 12-18 16-18zM31 261l31 63 18 32 5 6 3 6-2 2 10 16 5 5-2-3 2-1 2 2-3-5 1-1-3-7 2 0 0-3 3 0 2 2-3-5 1-2 3 2-3-5 1-2 3 3-3-5 3 0 1-2 3 3-4-11 2-1 0-2 4 2-4-7 2-1 3 2-3-3 1-2 10 7-4-11 1-1 4 4-4-8-14-7-4 0-20-20-23-12-14-18zM681 228l-5-6-4-9-4-1-12-20-47-91-16 22-15 28-26 28-20 30-2-1-13 13 4 9 6-8 4 12 6-5 6-8 4 7 6-7 5 9 5-7 5 7 6-8 2 3 2 10 6-8 5 5 5-6 5 8 6-9 4 9 6-7 5 10 5-9 5 5 6-6 4 7 6-11 5 11 5-7 6 5 3 7 6-9 5 9z"/>
<path fill="#00c39e" d="M411 521l6 6 4-2 6 7 5-9 6 6 3 1 2-1 3-6 6 6 5-4 6 5 4-5 6 5 4 0 6 4 5-9 6 7 4-4 6 3 4-3 6 5 5-5 12 8 4-6 6 6 4-8 11 3-14-13-2 1-11-10-20-11-23-26-11-9-45 46zM1006 356l-9 6-6 8 1 3-4 7 3 0 0 2 1-1 1 2-5 6 2 2-10 18-7 7 5 0 5-9 15-17-1-5 9-11-1-4-2-1 3-5zM31 261l31 63 17 29-2 2 6 8 4 9 8 6-6-18 1-1 2 3-2-3 1-2 3 3-3-5 1-2 6 3-4-9 1-2 1 1 0-3 3 1-2-3 1-2 3 2-3-5 1-1 8 5 0-5 3 3-4-11 1-2 1 1-15-14-1 2-11-11-23-12-14-18zM672 215l-10-18-3 0-12-21-38-75-16 22-15 28-22 23-11 17-4 1-12 17 0 2 3 3 6-6 5 12 6-8 5 8 11-13 4 8 6-7 5 7 6-6 4 8 6-10 4 12 6-6 5 4 5-8 5 10 6-9 4 8 6-9 6 12 3 2 6-9 4 12 6-9 5 6z"/>
<path fill="#00ca9a" d="M420 515l6 3 4 0 6 7 5-8 5 6 5-3 6 5 9-9 6 8 4-8 12 9 4 0 5-7 11 10 5-5 6 5 4-8 6 5 6-1 4 2 5-6-13-12-3 1-19-11-23-26-11-9-33 35-9 8-2-1-6 4zM1015 348l-5 3-10 12 2 2-5 7 2-1 1 2-4 5 2-2 1 2-6 7-1 3 3 1-9 10 2 2-2 3 10-11 13-19-1-5 8-18zM31 261l31 63 8 13-2 2 10 18 7 4-2-7 1-1 3 3-3-3 2-1 2 2-4-7 1-2 1 1-5-10 2-1 8 6-6-10 1-2 9 8-3-5 2-1 3 3-3-10 2-2 3 0-4-8-12-12-3 1-22-12-14-18zM609 101l-16 22-15 28-23 25-1-2-6 7-7 11 3 10 6-4 5 5 5-8 5 11 6-7 4 8 12-15 5 12 4 3 12-16 4 12 6-10 9 17 6-8 4 7 6-9 4 11 6-9 5 4 5-6-9-18-3 0-4-6z"/>
<path fill="#00d197" d="M429 507l6 5 4-3 6 5 5-2 5 5 5-8 6 7 4-3 6 3 5-2 5 6 5-8 6 6 4-6 6 6 5-5 5 3 5-2 6 6 4-10-4-4-4-2-3 1-12-7-23-26-11-9-33 35-5 4-2-1zM1019 344l-10 11 2 1-4 5 1 2-5 10 3 0-7 10 1-1 1 2-4 7 6-10 15-19 0-4 3-5zM31 261l35 69-2 1 5 10 6 4-3-3 1-1 3 2-2-2 2-1 3 3-4-9 1-1 3 4-2-3 1-2 3 0 2 2-4-8 2-2 3 3-3-5 1-2 2 2-3-6 1-1 3 2 0-3 3 3-4-14-7-4-3 1-16-9-14-18zM609 101l-16 22-15 28-17 18-1-2-8 9 4 14 6-8 4 6 6-6 5 9 5-9 5 10 6-9 4 11 6-8 5 5 5-6 5 8 6-10 4 11 6-8 5 7 5-9 5 7 5-7-5-10-4-2z"/>
<path fill="#00d893" d="M433 503l6 6 5-4 6 7 5-9 4 1 5 5 5-8 6 6 4-4 6 5 5-5 5 4 5-1 12 7 4-6 6 7 4-8-11-6-7-6-4-1-18-21-11-9-29 30-2 0zM1027 337l-10 9-4 6 2-2 3 2-5 9 0 4-8 14 14-16 6-10 0-6 3-7zM31 261l26 52-2 2 10 18 5 5 0-3 3 3-7-21 1-1 3 4-2-4 2-1 2 2-3-5 3-3 8 5-3-5 1-2 4 5-4-12-14-8-3 1-3-2-14-18zM609 101l-16 22-14 26-21 20 4 12 6-9 5 9 11-13 4 6 6-8 5 9 5-8 5 9 6-10 4 12 6-7 6 4 3 10 6-8 4 7 4-6 1-4-9-17-4-2z"/>
<path fill="#00df8f" d="M442 495l6 3 5-1 6 7 4-8 6 5 4-3 6 5 5-5 6 5 4-3 6 6 4-10 6 5 5-1-15-12-14-16-11-9-20 21-2-1zM1035 329l-13 14 1 2-4 5 3 1-8 13 5-1 14-22-1-3 4-5zM51 283l-2 5 1 5-4 4 10 20 4 2 1-1 3 4-4-11 1-1 3 3-2-2 2-1 2 2-3-5 1-2 2 2 3 0-3-12-12-12zM609 101l-16 22-11 21-6 5-6 8 3 5 6-9 5 14 6-8 4 7 6-8 4 8 6-7 5 7 6-9 2 3 2 10 6-9 4 5 6-7-10-20-4-2z"/>
<path fill="#00e68c" d="M451 485l12 10 5-2 4-5 6 5 4-7 6 7 6-5 10 7 5 0-14-15-2 1-7-9-11-9-5 4-5 7-7 4zM1040 323l-15 18 5 0-3 4 1 1-8 9 4 0 13-20 4-8zM31 261l12 24-1 4 5 10 11 8-7-10 2-1 3 3-3-9 1-1 3 4-3-5 1-2 2 0-10-12-1 2zM609 101l-17 25-4 2-12 21 0 2 3 2 12-13 4 8 6-9 5 11 6-8 9 15 11-16-5-10-4-2z"/>
<path fill="#00ed88" d="M456 480l6 7 4-5 6 6 5-8 5 6 6-1 5 3 4-6-13-15-2 1-7-5-5 4-5 7-3-1zM1050 314l-2 0-9 9-6 13 4-1zM35 261l-1 4 3 9-1 3 6 12 6 6 0-3 2 2-4-11 2-1 5 3-4-9zM609 101l-7 9-3 0-11 17-1 5 4 8 6-6 4 5 6-9 5 11 5-8 5 9 5-11-5-10-4-2z"/>
<path fill="#00f485" d="M486 469l-9-7-1 2-5-1-5 7-6 5 6 7 4-6 5-3 6 7zM29 257l-1 3 10 21 7 7-5-10 1-1-2-1 1-3-3-10zM607 101l-8 9 0 3 4 12 5-9 6 7 3 9 6-9-10-20-4-2-1 2z"/>
<path fill="#00fb81" d="M474 460l-5 5 6 8 5-9zM25 255l11 15-5-12zM610 97l-5 6 3 12 5-10z"/>
</g>
<g clip-path="url(#f11c)"><use href="#f11s" filter="url(#sb)"/></g>
</g>
<g font-size="10" fill="#262626">
<text x="848.5" y="692.4" text-anchor="middle">Function Topology</text>
<text x="714.8" y="852.9" text-anchor="end">0</text>
<text x="714.8" y="815.4" text-anchor="end">50</text>
<text x="714.8" y="778" text-anchor="end">100</text>
<text x="714.8" y="740.6" text-anchor="end">150</text>
<text x="826.4" y="912.8" text-anchor="end">-500</text>
<text x="770.4" y="887.1" text-anchor="end">0</text>
<text x="714.3" y="861.4" text-anchor="end">500</text>
<text x="834.4" y="913.3">-500</text>
<text x="907.5" y="893.6">0</text>
<text x="980.6" y="873.8">500</text>
<text x="767.4" y="916.1" text-anchor="middle">x<tspan font-size="7.8" dy="3.0">2</tspan></text>
<text x="900.5" y="918.1" text-anchor="middle">x</text>
<text transform="translate(698.7,786.7) rotate(-90)" text-anchor="middle" xml:space="preserve">F11( x<tspan font-size="7.8" dy="3.0">1</tspan><tspan dy="-3.0"> , x</tspan><tspan font-size="7.8" dy="3.0">2</tspan><tspan dy="-3.0"> )</tspan></text>
</g>
<g font-family="Liberation Serif, Times New Roman, serif" fill="#000" stroke="#000" stroke-width=".5">
<text transform="translate(816.3 960.8) scale(.875 1)" font-size="46" font-style="italic">F</text>
<text transform="translate(839 970.5) scale(1.15 1)" font-size="31.3">11</text>
</g>
</g>
<g id="f12">
<path d="M336.4 1249.6L223.2 1198.1M223.2 1198.1L223.2 1085.6M373.3 1239.7L260.1 1188.2M260.1 1188.2L260.1 1075.7M410.2 1229.8L297 1178.3M297 1178.3L297 1065.9M447.1 1220L333.9 1168.4M333.9 1168.4L333.9 1056M484 1210.1L370.8 1158.6M370.8 1158.6L370.8 1046.1M336.4 1249.6L484 1210.1M484 1210.1L484 1097.6M308.1 1236.7L455.7 1197.2M455.7 1197.2L455.7 1084.7M279.8 1223.8L427.4 1184.3M427.4 1184.3L427.4 1071.9M251.5 1211L399.1 1171.4M399.1 1171.4L399.1 1059M223.2 1198.1L370.8 1158.6M370.8 1158.6L370.8 1046.1M223.2 1198.1L370.8 1158.6M370.8 1158.6L484 1210.1M223.2 1160.6L370.8 1121.1M370.8 1121.1L484 1172.6M223.2 1123.1L370.8 1083.6M370.8 1083.6L484 1135.1M223.2 1085.6L370.8 1046.1M370.8 1046.1L484 1097.6" fill="none" stroke="#444" stroke-width="0.6" stroke-dasharray="0.7 2.6" opacity="0.4"/>
<g transform="scale(.1)" fill="none" stroke-width="8" stroke-dasharray="30 12">
<path stroke="#0022ee" d="M3717 12402l-61-13-44-17-26-21-7-13 5-9 57 5 57 15 35 20 18 24M4007 12324l-60-13-39-14-23-14-26-30-14-9-94-11-104-3-37 4-24 11-14 20-13 42-9 7-186-10-68 1-22 11-23 48-17 14-38 4-96-6M4306 12244l-61-12-45-17-28-24-5-12 7-8 61 6 52 15 35 19 18 24M3420 12473l-41-6-41-13-21-15-5-9 2-5 13-4 26 1 52 14 20 11 11 12 0 11-16 3M4601 12158l-35-4-45-13-27-16-4-13 10-6 23 0 54 12 21 11 14 12 3 12-14 5M3032 12345l7-13 11-11 36-16 43-7 104-6 25-5 13-10 13-21 2-13-6-7-35-3-55 7-159 40-104 17M3500 12198l20-4 16-9 3-10-13-5-54 7-25 10-6 6 24 6 35-1M3802 12117l21-4 18-11 4-9-11-5-52 6-26 10-6 6 20 7 32 0M4386 11894l-94 32-110 46-152 43-33 17-6 10 11 5 33 3 108 0 20-7 43-33 31-13 53-8 66 0 42 5 25 14 5 11 0 17-5 14-10 11-44 7-138-4-42 2-17 8-9 12-8 23-8 39-7 8-199-6-43 8-22 16-9 18-3 19 1 16 7 10 129 35 29 17 20 23M2783 12231l73-30 153-43 32-17 5-6-4-7-52-6-95 0-20 7-43 34-31 13-53 7-70 1M3218 12085l45-9 18-7 7-7-10-5-16-2-47 5-17 9-5 11 11 5 14 0M3527 12002l45-9 19-7 5-6-12-5-20-2-47 6-16 9-2 10 13 4 15 0M2610 12153l1-21 6-13 21-12 42-2 139 4 37-4 13-10 8-13 13-58 7-7 200 5 36-5 22-11 9-12 8-19 2-21-5-15-16-8-91-21-37-15-33-27-6-14 6-7 59 5 67 18 35 20 26 30 14 8 70 10 105 5 52-3 31-12 15-20 12-43 10-6 198 10 63-3 17-14 24-48 14-9 16-4 74 2 76 9 32 12 3 15-18 22-35 16-43 8-105 5-24 5-16 14-12 23 1 12 12 5 28 0 56-6 158-41 155-25 113-23M2864 12002l-61-7-58-17-36-23-10-12 0-11 14-4 29 2 43 9 42 14 24 13 15 15 5 13-7 8M3445 11845l-70-11-47-16-33-24-7-10 0-11 16-3 30 3 81 22 28 17 14 17 1 11-13 5M2528 12068l-38-5-35-11-27-17-6-10 1-5 13-5 29 3 57 16 19 11 7 10-4 9-16 4M3699 11752l-34-5-33-10-24-15-8-15 8-7 24 0 42 9 25 10 19 11 7 13-7 7-19 2M2899 11802l-6 2"/>
<path stroke="#0045dd" d="M3393 12488l-84-22-89-46-51-13M3681 12411l-92-24-75-37-34-12-64-7-53 4-19 8-13 10-3 14 6 10 23 15 85 34 44 37M3974 12333l-93-24-104-46-63-8-48 5-19 7-9 8-3 9 6 13 21 13 82 35 43 38M4270 12253l-93-24-76-37-32-10-58-6-50 5-26 15-2 13 7 10 19 11 81 36 43 37M4571 12173l-92-25-74-37-33-12-67-7-56 6-18 8-9 9-3 13 7 10 22 15 83 35 45 37M4631 12006l-60-1-43 7-25 15-6 10 0 12 6 11 17 12 103 42 41 34M2540 12121l-9-12-13-8-76-29-32-16-74-62-62-24M2339 11952l34 20 31 12 155 40 99 47 72 10 59-7 18-8 10-11 1-10-9-14-98-43-26-18-52-47-70-31M2640 11872l66 31 161 43 70 34 27 9 63 8 50-5 25-15 3-13-9-11-94-43-21-15-56-51-69-30M2936 11792l67 32 160 42 96 43 65 9 48-5 18-8 9-8 3-13-8-10-18-11-77-33-22-15-55-50-69-31M3229 11714l66 31 160 43 95 45 64 9 61-5 19-7 13-11 3-13-10-14-105-45-21-15-50-48-71-30M3518 11636l58 30 159 43 77 41 43 13 66 7 56-3 34-11 13-11 6-13"/>
<path stroke="#0067cb" d="M3368 12495l-12-3M3657 12418l-117-26-74-26-41-2-11 6 2 6 58 37 37 44M3949 12339l-203-43-3 5 32 28 36 47M4245 12260l-122-25-69-18-13 0-2 5 32 27 36 48M4545 12180l-110-24-88-30-36 1-8 7 5 7 54 35 38 43M4821 12092l-76-19-93-37-34-4-38 4-14 10 4 12 76 42 42 41M2354 12036l-39-32-61-29M2360 11947l44 21 48 15 150 34 89 29 36 0 8-7-5-7-55-35-53-59-32-20-46-21M2658 11867l45 20 49 16 163 34 60 17 21 1 3-4-33-28-52-63-31-21-45-20M2954 11787l45 21 49 16 243 52 4-3-33-29-52-64-31-20-45-21M3248 11709l44 21 48 15 150 34 82 27 41 3 10-6-1-6-58-38-54-59-31-20-47-21M3538 11631l77 33 151 37 95 36 42 7 21-1 23-6 7-7-1-10-16-12-64-32-33-30"/>
<path stroke="#008aba" d="M3632 12424l-52-6-31 2-15 9 3 21M3924 12346l-43-4-30 2-14 10 0 15M4220 12267l-44-4-30 2-14 10 1 15M4520 12186l-56-6-30 3-13 10 3 19M4824 12105l-66-10-45 1-11 11 10 28M2299 12012l-61-33M2376 11942l57 24 58 15 69 11 43-2 11-6 3-9-3-12-10-15-28-23-48-24M2675 11862l54 23 53 14 66 10 44-1 11-6 4-9-3-12-8-12-27-22-47-24M2970 11783l55 22 52 15 66 10 44-1 11-6 4-9-2-11-8-14-27-21-48-24M3264 11705l54 22 54 15 72 11 45 0 11-6 5-8-2-12-9-15-28-23-50-25M3555 11627l53 22 51 15 77 14 55 4 16-3 8-13-8-21-19-23"/>
<path stroke="#00aca9" d="M4792 12114l-35 2-13 11M2393 11938l50 19 44 12 48 6 30-3 13-10-6-18-19-16-41-22M2691 11858l89 29 44 6 30-2 14-10-5-16-18-16-40-22M2987 11779l89 29 43 6 30-2 14-10-4-16-18-16-40-22M3280 11700l89 30 50 7 31-2 15-9-4-18-21-18-41-22M3570 11622l53 21 50 13 52 7 31-2 17-11 0-8-5-11-22-19-46-24"/>
<path stroke="#00ce98" d="M2411 11933l64 20 33 4 19-2 9-6-3-12-39-26M2710 11853l66 19 39 1 9-7-1-6-36-28M3005 11774l66 19 39 1 10-7-2-7-36-27M3298 11695l63 20 31 4 20-1 11-6-3-12-39-27M3587 11618l78 24 35 4 20-1 13-9-3-11-17-16-30-17"/>
<path stroke="#00f187" d="M2441 11925l23 1 3-4-2-3M3327 11687l22 2 4-3-2-5M3610 11612l34 9 27 1 6-3 0-5-17-16"/>
</g>
<path d="M223.2 1198.1L336.4 1249.6L484 1210.1" fill="none" stroke="#333" stroke-width="0.7"/>
<path d="M223.2 1198.1L223.2 1085.6" fill="none" stroke="#ccc" stroke-width="0.7"/>
<path d="M336.4 1249.6l-2.9 0.8M308.1 1236.7l-2.9 0.8M279.8 1223.8l-2.9 0.8M251.5 1211l-2.9 0.8M223.2 1198.1l-2.9 0.8M336.4 1249.6l2.7 1.2M373.3 1239.7l2.7 1.2M410.2 1229.8l2.7 1.2M447.1 1220l2.7 1.2M484 1210.1l2.7 1.2M223.2 1198.1l-2.9 0.8M223.2 1160.6l-2.9 0.8M223.2 1123.1l-2.9 0.8M223.2 1085.6l-2.9 0.8" fill="none" stroke="#333" stroke-width="0.7"/>
<clipPath id="f12c"><path clip-rule="evenodd" d="M587 37l-3 2-5 12-8 42-24 225-3 11-9-29-15-69-22-81-24-56-6-6-7 13-7 35-27 238-10-32-31-131-17-49-14-28-5-5-7 12-8 41-24 221-2 4-12-40-20-88-15-55-12-32-13-26-6-6-4 5-4 15-8 47-22 204-3-1-4-12-29-124-13-47-11-30-16-32-3-2-4 2-3 6-8 43-27 233-2-3-11-41-11-27-6-11-10-10-7-4 15 128 5 30 6 16 3 1 14-9 5 0 6 5 27 60 13 15 7 3 12-3 21-18 13 35 12 20 15 15 9 5 16 0 17-9 18 39 9 14 8 5 67-7 11 15 27 21 11 4 12-1 7-4 15-15 6-10 5-3 10 12 18 32 14 14 9 2 9-4 10-11 7-12 5-17 15-10 19-24 6 4 20 35 12 15 6 5 11 1 6-3 15-18 6-14 4-18 18-16 14-18 6 5 20 35 8 10 10 9 11 1 6-3 13-15 8-18 7-30 15-13 9-13 5-4 9 10 19 33 12 13 7 4 8 0 4-2 11-11 9-15 6-20 5-28 11-10 14-19 3 0 5 4 21 36 14 16 7 3 11-1 12-12 12-24 9-41 11-74 6 2 17 16 10 2 8-7 15-29 3-12-9-50-9-37-9-16-6 4-3 6-11 39-11 27-9 7-17-1-9 4-15 16-14 25-2-2-11-54-7-17-5-4-7 10-11 38-11 28-7 7-24 1-16 15-18-36-9-10-7-2-6-9-3-1-8 12-23 4-10-19-19-55-27-56-15-22-28-25-7-14-12-41-30-127-20-56z"/></clipPath>
<g transform="translate(217,1040) scale(0.25)" fill-rule="evenodd">
<g id="f12s">
<path fill="#0005fd" d="M528 732l-10 1-2 4 1 4zM339 713l-1 3 5 0 2 3 0-6zM649 703l-11 1 0 9zM464 668l-4-3-23 5-1 4 4 3 21-1z"/>
<path fill="#000ef8" d="M585 752l12 12 11 1 10-7-8 0-4-2-5 2-3-4-10-3zM373 746l8 6 11 4 12-1 11-8-3-1-5 3-14 1-17-5zM697 718l16 18 5 2 11-1 9-8-8 0-9-5-5 3-5 0-9-9zM543 718l-3-1-8 5-5-1-7 4-3 8 1 5 3-3 8-2zM661 690l-2-1-6 3-12-1-3 10 1 8 2-3 8-2zM820 688l9 10 7 4 8 0 8-6-10-3-4 1-1-2-7 0-5-4zM346 716l-3-8-5-3-15 5-26 4-1-1 8-11 10-9 1-4-4-3-19 4-3 5-15 2-2 4-14 1 10 16 8 5 45-4 21-4 3 3zM239 665l-3-1-17 5-10 0-10-4-3 1 12 8 16 0 11-5zM779 653l-5 0-6 6-8 1-3 8 1 6 9-7zM476 642l-4-3-74 20-21 3-2 5-17 2-2 5-27 4-3 6-6 1-1 4 6 4 20 1 59-19 20-1 18 2 9-2-11 0 0-2 18-4 3 1-1 3 3-1zM302 622l1 5 18 1 32 7 17 0 5-2 3-4-1-4-11-6-5 0-5-3-12 3-3-5-3-1-8 1-3 3-8-2-9 5-7 0zM597 605l-7 2-1 2 1 8 4 3 3-1 4-8-1-5zM410 605l4 3 12-3 16 0 23 4 18 0 11-3 5-4 1-4-5-7-8-5-11 0-4-3-4 2-7-1-11 2-15-4-9 6-11 0 0 5zM712 580l-5 4 1 6 3 1 3-1 2-4-1-5zM551 557l-15 0-1 4-5 4 3 9 5 1 9-2 5-10zM580 558l3 15 14 1 10-3 2-3-4-9-4-1-4 2-5-6-3-1z"/>
<path fill="#0017f4" d="M587 39l-8 21-7 41-23 218-3 11-4 0-3-6-21-92-22-81-11-29-13-27-4-4-7 19-8 48-24 217-2 1-3-2-3-8-24-104-19-69-11-30-17-32-7 19-7 40-23 214-2 4-2 1-3-2-3-8-28-119-15-55-12-32-16-30-3 3-4 15-8 47-22 204-3 2-4-3-4-12-29-124-13-47-11-30-17-33-6 11-9 53-24 218-3 2-4-4-11-41-11-27-6-11-12-11 10 95 8 53 4 15 3 6 15-9 5 0 8 6 28 61-2 1 12 14 7 3 12-3 5-5-2-1 17-14 3 1 13 35 6 10 0 6 18 19 10 4 19-1 13-6 3 3 1-2 7 13-1 5 9 20 18-1 0-4 19-2-2-3 1-2 14-2 1 1-3 3 2 1-11 10-10 13 40-6 4-3 10 0 10 15 2 7 19 16 12 5 4-1 3 2 18-2 18-18-2-1 4-7 7-4 6 4 24 40 1 2-2 1 9 10 9 5 7-1 9-6-2-2 7-7 7-12 7-24 8-7 6 1 8-5 10-13-2-1 4-3 8 5 15 25-1 3 4 8 8 10 8 2 4 6 7-3 3 3 2-2 5 0 14-18-1-4 6-16 5-25 2 0 2-4 3 2 11-2 13-17 8 6 9 15-1 3 10 18 8 9 5 3 7 0 4-3 3 5 2-2 3 3 2-2 3 1 7-6 9-16-2-3 5-13 6-28 4-4 6 0 5-3 12-15-2-1 5-3 7 5 13 22-2 1 8 14 10 11 5 2 4-1 3 5 5-3 3 3 2-2 3 1 9-9 7-11-1-4 6-17 6-29 17-17-2-2 12-14 3 0 7 5 21 36 5 5-2 2 9 10 7 3 11-1 14-19 8-18 9-41 11-74 3-2 24 20 7 1 7-6 7-12 11-26-17-85-9-18-6 9-11 39-11 27-11 8-17-1-7 3-15 16-12 23-4 3-4-3-11-54-3-9-7-11-9 20-7 27-11 28-9 8-24 1-16 15-3-2-17-35-8-9-8-3-6-9-4 8-5 4-13 1-6 3-6-1-10-19-19-55-27-56-15-22-28-25-7-14-12-41-30-127-20-56zM473 643l-2 3 2 2-12 26-3 2-18 0-16-3-20 1-59 19-14 0-3-2 2-1-8-2 10-2-2-4 2-2 30-4-1-5 20-2-2-3 1-2 18-2 54-16zM305 623l7 0 7-5 3 5 3-4 2 4 6-7 2 4 3-4 4 8 3-3 3 4 3-5 2 4 3-5 4 6 3-4 12 7-6 6-16 0-25-5-1-3-8-1-3 2 0-2-10 0zM597 608l0 4 2 1-5 6-3-2-1-4 3 0-1-3zM415 603l3-3-1-2 2 0-2-3 2-1-1-4 9 1 8-6 2 4 3-3 3 5 3-4 2 4 3-3 2 4 3-4 2 4 3-5 3 4 2-4 3 4 3-5 4 7 3-5 5 6 3-5 6 5-2 3 4 1-2 2 3 0-5 4-11 2 0 2-15 0-23-4-21 1 0-2zM539 559l10 1 0 9-5 4-9-2-1-4 2-2 3 2-2-3 3 0-2-3zM583 559l1-1 2 3 3-5 9 9 4-4 1 2-2 3 5 1-4 2-1 3-15 1-4-5 0-3 2-1z"/>
<path fill="#0020ef" d="M587 39l-8 21-7 41-23 218-3 11-4 0-3-6-21-92-22-81-11-29-13-27-4-4-7 19-8 48-24 217-2 1-3-2-3-8-24-104-19-69-11-30-17-32-7 19-7 40-23 214-2 4-2 1-3-2-3-8-28-119-15-55-12-32-16-30-3 3-4 15-8 47-22 204-3 2-4-3-4-12-29-124-13-47-11-30-17-33-6 11-9 53-24 218-3 2-4-4-11-41-11-27-6-11-12-11 14 123 5 30 6 16 15-9 5 0 7 5 11 21 15 41 8 7 8 2 3 5 5-2 3 2 6-1 17-14 0-3 5 0 9 22-1 5 6 15 9 14 9 6 8 2 4-2 8 2 3-2 4 3 4-2 6 1 2-3 6 0 2 3 1-2 0 5 9 19 13 1-2-3 1-2 16-1-1-5 58-11-2-4 1-2 22-2-2-3 2-2 9 0 0-4 12 0 0-4 18-3 19-8 4 4 28-10 16-2 1-5 12 0 1-4 6 0 0-3 7-1 1-3 3 0-2-1 7-2 2 2-5 4 2 1-17 23-19 39-1-2-2 3-54 0-59 19-13 0-15-3-9 3-11 14 11 0 3-3 17-1 3-3 4 3 1-2 2 2 0 5 18 25 9 5 5 0 3 3 4-2 3 3 5-4 3 4 2-3 3 4 2-3 3 3 2-3 3 3 3-3 8 3 11-6 9-13-2-1 5-2 6 4 13 22-1 3 10 17 9 6 6 0 3 5 5-2 3 3 2-2 4 1 12-13 5-9-2-3 5-13 4-20 3-1 0-3 2-1 2 2 2-3 3 1 3-2 6 1 11-9 3 1 1-2 4 4 1 3-2 1 12 20 9 11-2-3 1-3 9 3 4 9 8-5 4 7 4-5 4 6 2-3 3 3 2-3 5 0 7-11 5-15-2-4 6-28 7-9 3 2 2-2 6 2 2-2 6 0 4-4 6 5 13 22 11 9 8 0 4-2 3 9 6-6 3 7 5-5 3 5 2-3 3 3 2-3-3-3-3-9 6-3 1 4-2 6 5-5 1 3-2 4 2-2 0 4 2-2 9-25-2-4 7-33 2 0 2-4 2 2 2-3 5 2 5-1 10-8 7 3-2 2 17 27 0-3 8 7 9 0 4 9 6-5 3 7 5-5 3 5 2-3 3 3 2-3 3 1 6-7 6-15 0-3-2-1 9-40 10-8 1 2 3-2 11-14-2-2 3-2 3 0 7 5 14 23-2 2 7 12 10 11 5 2 7-2 3 5 4-4 3 3 3 0 9-9 7-12-1-4 4-9 9-41 11-74 3-2 24 20 7 1 7-6 7-12 11-26-17-85-9-18-6 9-11 39-11 27-11 8-17-1-7 3-15 16-12 23-4 3-4-3-11-54-3-9-7-11-9 20-12 42-6 13-9 8-24 1-16 13-20-35-8-9-8-3-6-9-4 8-5 4-13 1-6 3-6-1-10-19-19-55-27-56-15-22-28-25-7-14-12-41-30-127-20-56zM621 733l-2 8-3-6zM381 716l-2 3 2 1-1 3-12 11-6 1-6-5 1-6 5 2-2-4 5 1-2-3 1-2zM859 675l2 1-1 4 2 0-2 4-5-5zM182 649l3-4-1-2 2 0-2-3 1-2 7 3-2-3 2-3 5 4 7-7 3 6 3-4 2 4 3-3 2 4 3-4 2 4 3-4 2 4 3-4 3 5 3-5 2 4 3-5 4 7 3-4 5 4 3-3 3 1 1 2-2 2 3 2-6 6-14 0-18-5-10 1-15 10-8 0-4-2zM652 575l-5 6-20-2 2 0 0 2-7 2-14 14-11 20-3 2-3-2-4-25 2 0 1-4 3 0-1-3 2-2 17-2 18-7 5 3 13-7zM734 553l1 1-4 4 2 1-9 10-10 19-3 2-2-1-4-23 2 0-1-3zM578 540l2-2 2 4 3-4 2 4 3-5 3 5 3-5 4 8 3-5 2 3 3-4 7 7 9 2-4 10-9 8-14 5-11 0-1-3-3-1-5-21 1-3 1 2zM555 539l-2 6 2 1-5 20-6 5-24 5-4 3 1 2-2 0-8 13-2 0-9 10-6 2-25 0-23-4-27 2-15 4-6 5 2 1-6 7-1-1-10 9-9 3-17 0-19-4-1 2-12-3-30 0-1-5 4-3-3-1 2-1 0-5-1 1-1-2 3-3 3 2-2-3 3 0-2-4 6 0 8-6 3 5 3-4 2 4 3-3 2 4 3-4 2 5 3-4 2 4 3-4 3 5 3-5 2 5 3-5 2 5 3-5 2 5 3-4 2 3 3-3 3 4 3-4 2 4 3-3 2 3 3-3 2 3 3-2 4 2 5-3 3 2 4-1-2-1 2-1 2-7 3 2-3-5 3 0-1-1 3-3-1-2 2-1-3-1 4-1-1-3 2 0 0-3 1 1-2-3 2-3 3 1 0-4 5-2 3 4 5-5 2 4 3-4 3 5 3-4 2 4 3-5 2 5 3-5 2 5 3-5 2 5 3-5 3 5 3-5 2 5 3-5 2 5 3-5 2 5 3-4 3 5 3-5 4 9 6-7 2 4 3-3 2 3 3-2 9 3 4-2-2-1 5-1 1-5 3-1-1-2 2 0-1-1 3-3 0-6 2 0 0-7 2 0-2-3 1-2 6 2 7-5 3 5 3-4 2 5 3-4zM827 533l4 5 3 0-2 4 3 0-3 6-4 3-3-2-1-11 2 0-1-3zM694 509l2 0 3 6 3-5 4 7 3-5 5 4 9 3-8 9-16 1-3-2-2-8 1-3 1 2zM674 506l4 7-5 15-3 2-14 2-1-2-3 2-3-3 0-3 4-1 0-3 1 1-2-6 3 0-2-3 8 1-2-4 2-2 4 5z"/>
<path fill="#0029eb" d="M342 632l-5-4-10-2-24-1-12 3-25 17-11 4-14 0-22-5-11 6 3 2 3-2 5 3 8-3 4 1 7 7 4 8 5 0 0-4 10 0-2-2 7-1 1-4 12-1 36-13 21-3 0-3 6 0 0-3zM1066 477l-17-84-9-18-3 3-7 17-12 42-6 13-5 5-6 3-17-1-7 3-15 16-12 23-4 3-4-3-11-54-3-9-7-11-9 20-7 27-11 28-9 8-21 0-5 2-15 16-12 22-4 3-2-1-6-29 3 0-1-3 2-2 15-6-8-17-14-15-8-3-6-9-4 8-5 4-13 1-3 2-8-2-9-20-2 0-3-5-16-47-27-56-15-22-30-28-10-26-37-153-20-56-14-27-8 21-7 41-23 218-3 11-4 0-3-6-21-92-22-81-11-29-13-27-4-4-7 19-8 48-24 217-2 1-3-2-3-8-24-104-19-69-11-30-17-32-7 19-7 40-23 214-2 4-2 1-3-2-3-8-28-119-15-55-12-32-16-30-3 3-4 15-8 47-22 204-3 2-4-3-4-12-29-124-13-47-11-30-17-33-6 11-9 53-24 218-3 2-4-4-11-41-11-27-6-11-12-11 14 123 5 30 6 16 15-9 5 0 7 5 11 21-2 3 6 15 11 17 0-6 4 4 8 2 4 8 6-4 4 6 4-4 3 4 2-2 3 2 15-7 12 32 4 5 0-8-2 0 2-2-1-2 2 0-1-2 2 0-2-3 2-1 3 3-2-4 8-3 3 4 3-3 3 5 5-8 3 6 3-5 2 4 3-4 2 5 3-5 2 5 3-4 3 5 3-5 2 5 3-4 2 4 3-4 2 5 3-4 2 4 6-6 3 5 3-3 2 4 11-7 9 2-2-3 3 0-2-3 3 0 0-3 2 2 3-1-1-2 2-1-3-1 2-1-2-7 4-2-4-7 0-4-4-3-9-16 6-3 2 1-3 7 5-3 1 2-2 4 3-2 1 2-2 3 2-2 2 1-2 3 5-1 8 6 3-3 4 5 3-3 3 4 3-5 2 4 3-5 2 4 3-5 5 10 3-5 2 5 3-5 2 5 3-5 2 5 3-5 3 6 5-10 3 6 3-5 2 6 3-4 3 5 5-5 2 4 8-4 7 0-2-4 5 1 0-4 4 3 1-9 3-1-2 0 3-5-2-1 1-4-15-20 2-3-1-2 0 2-2 0-4-8 2-3-2-3 1-2 12 5-3 10 3 0 5-4 1 2-3 7 6-4 1 2-3 5 4-2 1 2-2 3 6 0 8 6 3-5 4 6 4-5 2 4 3-5 4 9 3-6 2 5 3-6 3 5 3-6 2 6 3-6 2 6 3-6 2 6 3-5 3 5 2-4 3 6 3-5 2 5 6-7 2 5 6-5 2 5 8-3 7 1-2-4 2-1 3 2-2-3 3 0-1-3 2 0 0-3 4 5-2-3 3-4 1 1-2-5 2-7-15-23-3 0 2-2-1-4 7-1-2 9 5-3 1 2-2 4 4-1-2 4 5-2 0 4 3 0-2 2 6 4 3-3 4 5 3-4 3 4 3-5 4 8 3-5 2 4 3-5 3 4 3-5 2 3-2 5 1-2 1 3-23 68-4 6-6 4-21 0-5 2-11 10-20 32-23 48-4 1-10-6 2-1-3-5 2-1-2-1 4-4-1-5-14-2-28 3-51 17-14 0-14-3-11 7 22-1 4 3 6 11 4 2 0-2 3 1 1-6 4 2 0-7 6 1 2-4 8-2 5 2 7-4 3 3 6-3 2 3 4-3 1 2-2 4 1-1 1 2-18 27 3 5 2-3 3 4 2-3 3 4 5-7 3 5 2-4 3 4 2-3 3 4 2-4 3 3 3-3 6 4 2-3 4 1 10-6 4 3 18 29 0-5 6 6 6 0 4 10 9-6 3 8 5-5 3 6 2-3 3 3 2-3 6 0 4-6 6-16-1-7 6-27 6-9 3 4 5-4 2 3 16 1 11 13-1 1 3 2 0-3 10 10 6 2 8-3 3 10 6-7 2 2 1 8 5-6 3 8 4-7-3-11 1-4 7 2 6-4 1 4-2 6 5-6 1 3-2 6 3-4 0 5 2-2 6-24-2-5 4-21 5-8 4-1 3 4 4-3 3 3 8 1 7 8 2 0-1 2 1-1 2 3 0-3 7 10-2-4 1-4 6 5 6 1 4 11 10-7 2 1 2 9 5-6 3 10 7-11-3-13-2 0-2-4 3-9 5 5 8 2-3 12 3 0 7-6 1 1-2 10 2-4 1 4-2 6 8-13 6-46 5-7 3 3 3-2 3 3 4-2 3 2 6 0 5 4 8 12 14 11 6 0 8-5 3 10 7-8 3 9 4-5 3 7 3-4-6-19 10 2 5-3 1 2-3 10 5-5 1 3-2 6 3-4 0 6 4-6 6-25-2-5 5-25 2 0 5-6 3 1 11-4 3-4 10 3-2 2 12 20 5 5-1 1 2-1 6 6 4 2 9-2 3 8 6-6 4 6 4-5 3 5 2-3 3 3 3 0 4-4 9-22 0-3-2-1 8-34 11-74 3-2 24 20 7 1 7-6 7-12zM508 756l0 4 2-2 1 2-5 4-4-3zM504 751l1 4-3 5-4-7zM978 628l-1 7 3-3 1 1-2 5-6-5zM970 621l4 1-2 6-3-4zM778 524l2 8-5 10-6 6-6 2-17-1-5 2-15 15-12 22-3 2-3-2-8-44 4-7 19-3 17-7 3 3 7-4 5 3 9-6 4 4 7-5zM571 514l4 10-1 3-5-8zM738 499l-2 3 2 1-1 2 3 0-1 4-8 9-12 7-20 2-1-3-3-1-3-13-6-10 2-2-4 0-5 8-5 18-3 1-1 3-15 2-13 7 0 4-2 1 2 1-2 1 3 2-2 1 1 1 3-2 5 4 6-4 2 3 4-2 2 1 0 10-10 19-7 4-20 0-5 2-14 14-11 20-3 2-3-2-9-53-9-32 5-12 3 5 3-5 2 5 3-5 2 5 3-4 2 4 6-8 3 5 2-3 3 4 3-3 2 4 14-7 6 2-1-3 2 0-2-3 2-1 4 3-1-2 2-2-1-2 2 0 0-6 2 0 0-6 5 2-2-3 1-2 1 1-1-3 8-4 3 5 5-7 3 5 3-5 2 5 3-5 2 5 3-5 2 5 3-5 5 10 3-5 2 4 3-5 2 5 3-5 3 4 2-5 5 8 3-5 2 4 3-5 7 8 3-4z"/>
<path fill="#0032e6" d="M1040 375l-6 9-11 39-11 27-11 8-17-1-7 3-15 16-12 23-4 3-4-3-11-54-3-9-7-11-9 20-7 27-11 28-9 8-21 0-5 2-15 16-12 22-4 3-3-2-9-47 2-7 11-4-11-15-7-2-2-3-1 2-5-7-9 10-13 1-18 6-4 4-4 9 2 1-2 1 8 4 3-3 2 3 3-3 2 3 3-2 2 4 7-5 3 0-1 4 1-1 1 3-9 27-5 10-8 7-21 0-5 2-15 15-12 22-3 2-3-2-4-28-10-44-6-14-4-4-5 8-15 52-7 15-4 5-6 3-20 0-5 2-14 14-11 20-3 2-3-2-5-33-10-45-6-15-4-4-6 10-15 52-9 17-6 4-24 1-13 11-13 19-23 47-4 2-5 11-3-1-1 2-6-3-14-14-6-4-6 0-6 4-7 9-5 11-5 3-6 12 3 6 4-8 3 5 2-3 3 5 3-4 3 5 2-3 3 4 4-5 3 4 2-2 3 4 5-3 3 3 8 1 14 18-2-4 1-2 8 9 6 3 4 0 5-4 4 11 6-6 3 10 7-10 3 9 2-5-4-11-1-15 12 4-3 12 7-4 1 4-2 6 5-6 1 3-2 6 3-4 0 4 8-25-1-10 4-20 8-6 4 5 8-1 8 7 0-3 6 9 0-5 7 10 10 7 10-3 3-4 4 12 7-8 3 11 7-11-3-16-3-1 2-1 3-9 7 6 9 2-3 13 7-5 1 4-2 7 5-6 1 4-2 6 8-13 6-45 1 2 2-5 3 5 4-2 7 2 9 10 0-4 7 9 0-6 10 8 8-1 4 12 9-8 3 12 7-9 3 11 5-8-3-16-3-1-1-6 2 0 2-9 11 9 10 0-3 13 8-9-2 14 6-10-1 11 4-7 3-15-1-12 3-18 3-1 1-4 8-1 3 5 7 3 0-3 6 7 0-3 8 10 0-6 10 6 4-1 4 12 9-5 3 11 7-8 3 10 7-11-4-17 1-3 9 8 7 0 8-7-2 14 2-4 3-1-2 10 8-14 3-15-2-6 4-23 6-5 3 4 4-3 3 3 7 0 21 22 0-6 9 3 4 11 9-5 3 10 7-8 3 9 4-6 3 7 3-4-6-18 1-4 6 3 9-2-3 11 5-5 1 1-2 9 5-7 0 5 2-2 6-26-2-5 14-85 3-2 24 20 7 1 7-6 7-12 11-26-12-65-5-20zM587 39l-8 21-7 41-24 226-4 4-5-7-21-92-22-81-11-29-13-27-4-4-5 11-7 35-26 237-3 2-3-2-3-8-37-154-17-49-17-32-7 19-7 40-24 217-3 2-2-1-4-9-28-119-15-55-12-32-13-26-4-4-6 18-8 47-22 204-3 2-2-1-11-33-13-60-24-92-11-30-18-33-5 11-9 53-24 218-3 2-4-4-11-41-11-27-6-11-12-11 10 95 8 47-1 12 6 16 3 1 11-8 10-2 6 5 0 6 8 17 11 17-1-7 8 9 6 3 9-2 4 8 6-3 4 5 6-4 3 5 5-2 3 3 4 0 10 21-1-4 2-2-3 1 3-3-3-1 2-1-2-2 2-2-6-7-7-14 8-6 1 2-3 7 5-2-1 5 3-1-2 4 6-2 10 7 3-4 4 6 3-5 3 4 3-5 4 9 3-5 2 4 3-5 3 5 3-5 2 5 3-5 2 6 3-5 2 5 3-4 2 5 6-9 3 6 3-3 2 5 9-7 3 6 8-2-1-7 7 4-1-3 2 0 0-5 4 5-2-3 3-6-1-7-6-12-4-2-7-17 2-2-1-5 3-9 4 6 12 4-3 11 10-4-2 8 8-2 1 2-3 5 4 0 4 3 4-6 7 7 3-6 5 8 3-6 2 5 3-7 4 11 3-6 3 6 2-6 3 6 3-5 2 6 3-5 2 6 6-9 2 6 6-6 3 6 10-5 7 2-2-5 2-1 4 3 0-10 3-5-2-1 1-2-7-15-4-2-4-10 4-19 5 8 15 5-3 10 9-4 2 1-2 8 10-2 10 9 3-7 4 7 3-6 5 9 3-7 2 5 3-6 2 5 3-6 3 6 2-6 3 6 3-5 2 6 3-5 2 7 3-4 2 6 6-7 4 6 9-6 7 2-1-7 5 4 0-5 4 4-1-5 2 0-2-13-7-14-3 0-5-11 2-3-5-9 1-3 6 10 7 4 6 0 7-3-2 10 6-4 3 1-3 7 10-1 8 7 3-6 5 6 2-6 5 9 3-6 2 4 3-6 5 11 3-6 2 5 3-5 2 5 3-5 2 6 3-5 3 5 5-9 3 6 3-4 2 6 9-8 3 6 8-2-2-5 3-1 5 4-1-4 2 0 0-5 4 5 0-7 2 0-1-2 3-2-1 1 0-3-2-1 1-5-13-21 0 2-2 0-2-4 1-2 1 1 0-4 8-1-2 9 5-3 1 3-2 4 5-4 1 2-2 3 3-1 0 4 4 0 8 6 3-4 5 6 3-5 2 3 3-5 4 9 3-5 3 4 3-6 2 5 3-6 2 5 3-6 5 12 2-6 3 5 3-5 2 5 3-5 2 5 3-5 2 5 3-5 3 6 3-5 2 4 3-3 2 4 6-6 2 4 3-2 2 3 5-3 6 0 0-6 6 0-1-2 2 0-1-2 2-2-6-17-6-7-10-31-11-24-23-43-8-11-28-25-7-14-12-41-30-127-20-56zM150 569l4 1-2 7-3-6z"/>
<path fill="#003be1" d="M1046 385l-6-10-3 3-9 23-5 22-11 27-11 8-17-1-7 3-15 16-12 23-4 3-4-3-11-54-3-9-7-11-9 20-7 27-11 28-9 8-21 0-5 2-15 16-12 22-4 3-3-2-12-62-4-12-6-9-9 19-10 36-9 21-8 7-21 0-5 2-15 15-12 22-3 2-3-2-4-28-10-44-6-14-4-4-5 8-15 52-7 15-4 5-6 3-20 0-5 2-14 14-11 20-3 2-3-2-5-33-10-45-6-15-4-4-6 10-15 52-9 17-6 4-24 1-13 11-13 19-16 33-8 10-4 8 1 2-2 0 0 5-7 3-6-3-20-18-6 0-16 14-7 14 3 5 5-7 3 5 2-3 3 5 5-4 3 5 4-3 3 5 6-1 8 5 0-3 8 11 0-5 15 16 6 1 9-7 4 12 7-8 3 11 7-11-3-16-3-1-1-4 1-2 2 3 0-8 8 9 6 3 8-1-3 13 8-9 1 1-3 12 5-9-1 12 5-9 5-44 3 0 1-6 2 6 6-1 12 10-2-4 1-3 11 14-2-5 1-4 12 4 2 2 2 11 11-8 3 13 7-9 3 12 7-12-3-18-3-1 1-2 1 1 3-12 7 8 8 4 9-3 1 3-3 12 8-10-1 12 3-7 2 0-2 13 5-10 2-11 1-24 5-8 8 1 10 10 0-6 15 14 8 0 2-2 2 2 2 11 9-9 3 12 7-10 3 13 5-9-3-17-3-1-2-10 4-10 10 11 8 4 10-2-3 14 8-10-2 15 5-9 0 10 4-7 3-18-2-6 3-18 6-8 6 2 14 15-2-4 1-4 6 7 8 4 8-2 4 12 9-10 2 3 1 11 7-10 3 12 5-9-3-17-3 0 0-3 2 0-1-6 1-1 6 7 3-12 7 5 7 1-3 14 5-2 5-7 1 1-2 14 3-6 2 0-2 12 8-15 2-12-1-12 2-12 4-7 10 0 12 11 1-1 4 4 0-5 4 5 10 6 6-2 4 12 3-1 6-8 3 12 7-8 3 10 5-8-3-15-3-1 1-3 1 2-1-6 1-1 7 8 5 2 6 0 7-7-2 14 3-6 2 0-2 11 8-14 3-15-2-6 11-69 3-2 24 20 7 1 7-6 7-12 11-26-12-65zM587 39l-8 21-7 41-24 226-4 4-5-7-21-92-22-81-11-29-13-27-4-4-5 11-7 35-26 237-3 2-3-2-3-8-37-154-17-49-17-32-7 19-7 40-24 217-3 2-2-1-4-9-28-119-15-55-12-32-13-26-4-4-6 18-8 47-22 204-3 2-2-1-11-33-13-60-24-92-11-30-18-33-5 11-9 53-24 218-3 2-4-4-11-41-11-27-6-11-12-11 8 79 8 51-2 6 3 17 4 0 2 9 6-5 3 6 7-3 6 2 6 5 5 7-1 1 2 0-1 2 4 1 3 9 0-5 4 8-2-6 1-3 4 8 8 9 4 2 14-2 3 8 11-5 3 7 6-1 7 4 6 13-1-7-11-25-4-2-3-6 3-14 7 10 15 3-3 9 8-3-2 8 7-2 5 1 9 8 3-6 4 7 3-6 5 9 3-6 2 5 3-6 2 5 3-5 2 5 3-5 3 6 3-5 2 6 6-8 2 6 6-6 2 6 6-3 9 0-2-6 1-1 5 4-2-3 1-3 4 5-1-3 2 0-1-3 1-1 1 2 1-2-2 0 1-3-8-19-5-4-9-21 1-2 1 1-1-3 3-9 8 18 4-14 4 7 7 6 14 1-3 11 12-3 7 3 8 9 3-7 4 8 3-7 5 10 3-6 2 5 3-6 2 6 3-5 2 6 3-5 3 6 5-8 4 6 10-8 6 0 6 4 1-9 4 5 1-3-3 0 2-3-9-22-3 0-7-16 2-2-1-7 3-9 8 18 4-14 4 7 7 6 15 0 1 2-3 9 10-2 13 9 3-8 6 12 3-7 3 3 2-6 5 12 3-7 2 6 3-5 2 6 6-11 3 7 3-4 2 7 12-10 6 0 5 4-2-6 1-1 5 5-1-3 2 0 0-2-2-1 3-4-9-20-4-2-7-15 3 0-2-4 2 0 3-14 10 18 4-13 5 5 9 4-3 12 12-4-1 10 7-1 11 7 3-7 6 10 3-7 3 4 3-7 4 11 3-6 2 5 3-6 3 6 2-6 3 6 3-5 2 7 6-9 2 6 6-6 2 7 8-4 7 1-2-6 2-1 4 3-2-3 1-2 4 5-1-4 5-5-2 2-3-1 4-3-2-1 1-1-9-18-4-2-7-15 1-3 2 3-6-12 1-5 12 19 8 4 11-3-2 10 10-5 1 2-3 6 8 0 8 7 3-6 4 6 4-6 4 8 3-6 2 5 3-7 5 11 3-6 2 5 3-6 2 6 3-6 2 6 3-5 3 6 3-5 2 5 6-8 2 5 3-2 3 5 7-6 6-2 7 1-1-5 4 3 0-4 4 4-1-3 2 0 0-3 1 1-10-25-3-1-3-12-27-56-15-22-28-25-7-14-12-41-30-127-20-56zM481 444l5 9-1 4-5-9z"/>
<path fill="#0044dd" d="M1046 385l-6-10-3 3-9 23-5 22-11 27-11 8-17-1-7 3-15 16-12 23-4 3-4-3-11-54-3-9-7-11-9 20-7 27-11 28-9 8-21 0-5 2-15 16-12 22-4 3-3-2-12-62-4-12-6-9-9 19-10 36-9 21-8 7-21 0-5 2-15 15-12 22-3 2-3-2-4-28-10-44-6-14-4-4-5 8-15 52-7 15-4 5-6 3-20 0-5 2-14 14-11 20-3 2-3-2-5-33-10-45-6-15-4-4-6 10-7 27-13 36-4 6-6 4-21 0-5 2-16 16-16 29-4 2-7 15-2 12 3-3 2 1-3 7 2 2-7 7-1-2-3 3-6 0-28-20-8-1-6 4-8 13 3 5 4-5 4 5 6-4 3 6 6-1 6 3 6 7-2-4 1-3 13 16-3-10 10 2 3 14 4 0 10-8 3 13 7-9 3 12 7-12-3-18-3-1-1-5 2-6 3 0 8 9 8 5 4 0 7-5-2 14 4-6 3-1-2 11 2-5 2 0-2 12 6-11 4-41 3-1 1-3 7 2 11 12-1-10 11 9 8 0 4 13 11-9 3 13 7-10 3 14 7-14-3-18-3-1-1-5 5-11 18 16 5 1 7-4-1 15 8-12-1 13 2-6 2 0-2 13 6-12 3-19-2-5 2-13 3-1 1-4 22 19 6 3 6 0 7-6 2 2 2 11 6-8 3 14 7-11 3 13 5-11-3-16-3 0-3-18 3-6 19 17 11 2 6-4 1 5-2 8 6-9-1 13 3-7 2 0-2 13 5-11 3-19-2-5 2-11 2 0 2-4 10 6-2-4 1-3 10 10 9 5 6 0 5-4 2 3 1 11 9-12 2 2 2 12 6-11 3 14 5-12-3-16-3 0-1-7 3 1 0-6 5 5 4-11 11 9 9 1-3 14 4-2 5-7 1 1-2 13 4-7 2 0-2 13 8-17 2-12-1-13 1-6 4-6 7 1 8 7 0-5 17 16 8 0 5-4 2 2 2 11 6-9 2 2 2 11 6-9 3 12 5-11-3-15-3 0 0-14 1-1 9 11 4-13 9 5-3 14 6-2 7-7 1 1-3 13 3-6 2 0-2 12 8-14 2-12-1-12 8-51 3-2 24 20 7 1 7-6 7-12 11-26-12-65zM587 39l-8 21-7 41-24 226-4 4-5-7-21-92-22-81-11-29-13-27-4-4-5 11-7 35-26 237-3 2-3-2-3-8-37-154-17-49-17-32-7 19-7 40-24 217-3 2-2-1-4-9-28-119-15-55-12-32-13-26-4-4-6 18-8 47-22 204-3 2-2-1-11-33-13-60-24-92-11-30-18-33-5 11-9 53-24 218-3 2-4-4-11-41-11-27-6-11-12-11 5 54 9 63-2 1 3 21 2-2 3 2 2 11 7-4 10 2 8 10 0-5 3 5 1-2 1 1-1 4 1-2 3 6 2 0-1 3 2 0 2 6 0-6 4 9-2-10 2 0 3 9 7 8-3-10 1-2 9 5 3 12 16-4 3 8 10 0 7 6 1-1 2 4-8-20-13-16 2-1 3-14 5 13 4-13 10 15 8 4 13-2 1 2-3 9 10-1 10 8 3-7 5 7 3-7 4 9 3-6 3 5 3-6 2 5 3-5 2 6 3-5 2 7 6-9 2 7 9-7 4 8 4-1-2-5 1-3 8 6-2-6 3 1 0-12-7-16-4-2-8-18 0-10 3-10 6 18 4-15 8 19 4-14 7 12 8 5 15 0 1 2-3 9 6 0 7 4 4-8 6 9 4-7 4 9 2-6 2 0 1 4 3-6 3 6 3-6 2 6 3-4 2 6 6-7 2 6 8-5 10 2-1-6 5 4-1-6 2-1-10-23-3 0-8-15 2-2-8-14 2-7 7 18 3-15 6 17 3-14 2 0 5 13 3-14 14 20 4 2 23 1 11 11 3-8 7 14 2-6 2 0 1 4 3-7 3 6 3-6 2 6 3-5 2 7 6-8 2 6 11-6 7 2-2-6 1-1 5 5-2-4 2 0-1-3 2-2-2-1 1-2-7-15-4-2-14-26 2-2-1-4 2-6 7 17 2-14 2 0 6 15 3-15 4 11 6 9 4-13 11 9 10 1-3 12 8-2 6 1 10 10 4-8 4 7 3-8 4 9 3-6 3 6 3-7 2 6 3-5 2 6 3-5 2 6 3-4 3 7 8-9 3 7 6-1-3-7 4-1 5 3-2-6 1-1 5 5-1-3 2 0 1-3-3 0 2-3-5-12-14-23 2-2-3-6-1 3-2-5 2 0-2-2 2-7 7 15 3-14 12 21 2-1 3-13 9 6-3 12 15-4 1 2-3 9 10-1 8 7 3-8 6 11 3-8 5 10 3-7 2 5 3-7 2 6 3-7 3 6 3-6 2 7 3-6 2 7 3-5 2 6 6-7 2 6 11-8 5 0 8 4-2-5 3 0-2-4 1-1 4 5-1-3 2 0 0-3-2-1-4-17-3-6-4-2-22-47-15-22-28-25-7-14-12-41-30-127-20-56zM95 519l2 0 5 11 3-12 7 15 3-13 7 17 3-13 6 16-7 2-1-1 2-1-2-1-6 2-9-1-6-3-9-10z"/>
<path fill="#004dd8" d="M408 674l3 8 4-2 8 2 14 14-3-11-8-8-8-5zM113 540l3 11 9-2 8 1 7 6-3-9-7-6-7-2zM1040 375l-6 9-11 39-11 27-11 8-17-1-7 3-15 16-14 25-2 1-4-3-9-47-5-16-7-11-9 20-7 27-11 28-9 8-21 0-5 2-15 16-9 16-3 1-4 6-1-6-1 2-2-2-11-56-4-12-6-9-9 19-10 36-9 21-8 7-21 0-5 2-15 15-5 9-4 1-6 12-1-6-3 0-3-22-10-44-6-14-4-4-5 8-15 52-10 19-7 4-20 0-5 2-14 14-5 9-5 3-4 8-1-4-3 0-4-29-10-45-6-15-4-4-6 10-15 52-9 17-6 4-21 0-5 2-11 10-13 20-4 2-9 17 1 2-2 0 2 2-3 5 3-3 2 1-3 6 2-1 1 2-2 3 3 0-18 22 3 14 11-10 3 14 5-9 3 0 2 13 7-14-3-19-3-1-1-5 3-7 17 15 3-12 2-1 1 4-3 9 2 2 6 0 7-6-2 15 2-5 4-4 1 1-2 11 2-5 2 0-2 12 6-12 3-19-2-5 1-6 5-7 4 3-1-8 17 13 8 2 5-3 2 2 2 11 9-10 3 14 7-11 3 14 7-14-3-20-3 0-1-6 2-8 9 4 15 12 10 1 4-3 1 5-2 8 9-13-1 13 2-6 2 0-2 13 6-13 2-12-1-13 3-1 0-3 2-1 9 7-2-5 1-4 5 4 7 2 3 11 5 0 9-7 3 13 6-10 2 3 1 11 7-12 3 15 5-9-3-21-3 0-2-12 3-6 5 1 9 7 2-1 3-10 6 5 6 1 1 3-3 11 6-1 7-7-2 15 4-8 2 0-2 13 3-8 2 0-2 13 6-13 3-19-2-6 1-5 4-4 14 11 9 4 6-1 5-5 2 2 2 11 9-12 3 14 6-12 3 14 5-12-3-17-3 0-1-7 2 0 1-4 3 0 3-10 17 14 8 1 5-3-2 15 7-9 1 6-2 8 4-8 2 0-2 13 8-17 2-13-1-13 5-7 20 18-2-9 2-2 3 11 3 3 6 0 8-6 3 13 6-10 2 2 2 12 6-11 3 14 5-12-3-16-3 0 0-16 1-1 9 8 3-11 9 7 9 1-3 14 4-2 6-8 1 1-2 14 3-7 2 0-2 13 8-16 2-12-1-13 5-32 3-2 24 20 7 1 7-6 7-12 11-26-12-65-5-20zM587 39l-8 21-7 41-24 226-4 4-5-7-21-92-22-81-11-29-13-27-4-4-5 11-7 35-26 237-3 2-3-2-3-8-37-154-17-49-17-32-7 19-7 40-24 217-3 2-2-1-4-9-28-119-15-55-12-32-13-26-4-4-6 18-8 47-22 204-3 2-2-1-11-33-13-60-24-92-11-30-18-33-5 11-9 53-24 216-6 2-19-62-10-19-12-11 5 54 8 56-1 11 3-1 2 2 2 14 12-3 11 10 1 3-2-6 1-4 6 12 1-3 7 10 0-2 2 0 3 9-2-10 2 0 2 7 6 9-3-15-9-18 1-3 5 2 3-13 11 20 3-14 7 16 2-13 2 0 6 17 3-15 6 17 3-14 2 0 5 14 3-14 7 13 7 7 2-1 2-10 3 0-3 13 20 0 7 4 7 8 3-7 5 8 2-6 2 0 1 4 3-6 5 11 5-10 3 6 3-4 2 7 11-9 5 0 5 3-2-3 1-2 4 4 0-9-2-1-6-17-4-2-10-18 2-2-5-8-1 2-4-6 1-2-2-2 3-10 5 9 4 14 2-14 2 0 4 10 3-15 7 19 3-15 8 20 4-14 6 12 7 7 23 4 9 7 3-8 7 11 3-7 2 4 3-6 4 12 6-10 2 6 6-7 3 7 6-3 5 1-2-6 2-1 4 4-1-3 3-2-3-1 2-1-9-19-5-3-13-21 2-1-2-2 0-6 3-10 7 16 3-16 7 19 3-16 6 18 4-15 6 16 3-14 10 18 4 1 3-11 13 7-2 11 10 1 6 5 2 0 3-9 6 10 3-8 5 9 3-6 2 5 3-5 2 5 3-4 2 6 6-7 3 7 8-4 3 1-1-7 5 4-1-4 3 1 0-3-2-1 1-2-10-19-3 0-12-20 4-21 6 17 3-16 7 18 2-14 2 0 6 16 3-15 8 18 4-14 4 8 7 6 7 3 13 1 1 2-3 9 4 1 3-10 11 12 3-7 5 8 3-7 4 11 3-6 3 6 3-6 2 6 6-8 2 6 11-7 5 0 5 4-2-3 2-6 4 5-2-4 1-2-10-21-4-2-11-19 2-2-1-6 3-10 6 17 2-14 2 0 6 15 3-15 10 20 4-13 7 7 11 4-3 11 17-1 10 10 4-9 6 13 3-8 3 5 3-7 4 12 3-7 2 6 3-5 2 6 6-10 3 7 6-7 2 6 8-4 10 2-2-3 1-3 4 4-1-4 2 0-1-3 3-3-2 0 1-2-2-1-2-8-6-12-3-1-15-31-15-22-28-25-7-14-12-41-30-127-20-56zM333 432l7 10 1 7-10-9zM456 402l6 13-1 3-7-7z"/>
<path fill="#0057d4" d="M567 520l-3 2-4 8-15 52-9 17-6 4-21 0-5 2-11 10-7 10-3 0-5 8-6 17 4-2 1 2-2 3 3 0-4 10-3 1-7 14 3 17 7-11 3 15 6-13-1-12-4-10 0-4 2-1-2-8 1-5 5 1-3 9 6 3 4-10 15 10 9-1 1 3-3 11 8-8 1 1-3 14 4-9 2 0-2 14 3-9 2 0-2 13 6-13 3-19-2-5 1-4 4-4 15 10 8 0 5-4 2 2 2 11 9-12 3 14 7-12 3 15 7-15-2-13-3-2-3-18 2-6-3 0-4-29-10-45zM685 498l-6 8-15 52-10 19-7 4-20 0-5 2-12 12-2-1-12 20 4-1-2 5 8-2 21 10 6 0 1 2-3 10 8-3-2 11 8-14-1 15 1-4 2 0-2 12 8-18 2-12-1-8 3-5 12 6 8-2 4 12 9-8 3 12 7-11 3 14 6-13 3 15 5-10-3-21-3 0-11-66-8-30zM1040 375l-6 9-16 53-6 13-5 5-6 3-17-1-7 3-12 12-12 21-3 1-4 6-5-6-10-49-3-9-7-11-9 20-7 27-11 28-9 8-21 0-5 2-16 17-3 1-11 21-2-1 0-5-1 3-2-3-11-56-4-12-6-9-9 19-10 36-9 21-8 7-24 1-13 12-1-2-14 20-1 4 4-1-2 5 7-2 5 1 17 9 6 0 3-2 1 3-3 11 8-9-1 12 4-7 0 11 2-7 2 0-2 13 6-13 2-13-1-12 3-1 1-3 8 5 9-1 4 12 8-6 4 12 8-14 2 2 2 12 2-6 3-1 2 14 7-15-3-21-3 0-2-15 1-1 1 2-1-8 3-3 0 4 3-2 2 1-3 7 8 0 22 13 5 0 5-4-2 14 3-2 4-8 1 6-2 8 4-9 2 0-2 12 8-18 1-11-2-1 3-6 3-1-2-4 1-3 17 10 6-1 4 12 9-7 3 12 6-10 2 2 2 12 6-12 3 14 5-12-3-17-3 0-1-11 2 0 0-5 6 2 3-10 11 10 9 4 7 0-3 13 5-3 4-7 1 1-2 14 4-9 2 0-2 14 8-18 0-19 2-13 3-1 0-4 6 2 17 16 10 2 8-7 0-6 7-11 9-22-12-65-5-20zM587 39l-8 21-7 41-23 218-3 11-4 0-3-6-21-92-22-81-11-29-13-27-4-4-7 19-8 48-21 198-3 1-1 16-2 0-2-7-1 3-2-3-24-104-19-69-11-30-17-32-5 11-8 41-23 211-3 1-2 12-2-6-1 2-3-4-28-119-15-55-12-32-13-26-4-4-6 18-6 33-22 201-5 17-2-5-3 0-3-8-29-124-13-47-11-30-18-33-5 11-11 68-22 202-2 4 4 0-1 6-2 0-1-4-3 0 1-4-3-3-4-18-14-42-10-19-12-11 11 96-2 1 3 24 8-4 6 0 9 7 5 8-2-8 1-5 6 14 0-8 4 10 1-3 3 7 0-2 2 0 3 9-8-32 6-1 9 7 4-16 8 13 2 7 4-15 7 17 3-15 7 18 3-15 6 18 2-14 2 0 6 15 3-14 8 15 4-12 7 8 17 5 1 3-3 8 7 2 3-9 8 8 3 6 3-7 2 4 3-6 5 10 6-10 2 6 3-3 3 6 7-5 7 1-1-6 4 3 2-2-2 0 0-6-7-13-6-5-8-15-9-9 3-22 9 20 4-17 6 18 3-15 7 18 2-14 2 0 3 11 3-15 9 22 3-13 9 15 3-12 8 7 21 9 7 8 4-6 4 7 3-6 2 4 3-4 3 5 3-4 2 5 9-6 8 2-1-2 3-1-2 0 1-3-12-21-2 1-15-18-16-13-4-5 2-1 0-4 7 0 11 12 4-18 9 19 3-17 7 17 3-16 7 19 3-15 7 19 3-15 6 17 3-14 8 16 4-12 9 11 17 6 13 12 3-8 4 8 3-6 2 4 3-5 3 6 3-5 2 5 11-7 6 2-1-2 2 0 0-3 1 1-13-24-2 1-36-37-1-3 2-1-1-3 2-2 6 0 7 4 11 17 4-17 6 16 4-18 6 18 3-16 7 19 3-16 7 19 3-15 8 19 4-13 4 8 9 9 20 5 6 6 2 0 3-8 6 10 3-7 5 10 3-6 2 5 3-5 2 6 6-8 2 6 8-4 7 2 0-8 3-1-2-1-8-18-6-4-10-17-9-8 2-1-2-6 3-10 9 18 3-16 6 18 3-16 7 17 2-14 2 0 6 16 3-15 10 22 4-14 9 10 9 3 8 0 1 2-3 10 4 0 7 4 4-9 9 12 3-8 4 10 2-6 2 0 1 4 3-6 3 5 3-5 2 6 3-4 2 6 9-10 2 7 5-2 7 1-1-7 5 4-2-4 2 0-1-3 2 0 0-4-2 0 0-5-7-14-4-2-7-15-15-22-28-25-7-14-12-41-30-127-20-56zM200 450l7 1 10 12-2 1-9-8 4 4-2 1-8-7 3 0z"/>
<path fill="#0060cf" d="M475 653l-4 14 3 15 2-6 3-1 2 14 3-7-5-25-2-4zM567 520l-3 2-4 8-15 52-9 17-6 4-21 0-18 11-10 15 2 0-2 4 4-3 2 1-3 6 6 0 19 10 7-1 4-3-2 13 6-7 1 1-2 10 2-5 2 0-2 13 4-10 2 0-2 12 6-13 3-19-2-6 3 0 1-4 11 5 2 9 5-1 5-5 4 12 9-13 3 13 4-7 2 0 2 14 6-14 2 1 2 14 2-4-4-27-4-6-11-64-7-25zM685 498l-6 8-15 52-10 19-7 4-25 0-16 15 0 5 14 0-3 9 13 5 8-3-1 12 8-11 0 19 4-8 0 10 7-16 3-20 3 2 2 7 7 0 6-4 3 10 7-7 3 12 3-8 4-4 3 13 2-6 3-1 2 13 7-16-3-21-3 0-4-28-10-44zM803 466l-9 19-10 36-9 21-6 6-6 2-18 0-2-2-4 2-12 12-3 9 10-2 14 4 1 3-3 8 8 0 5-4 1 1-3 11 6-9-1 12 3-8 2 0-2 13 2-5 1 4-2 8 8-19 3-15 12 1 4-2 3 10 9-9 3 11 2-5 3-1 2 12 7-13 3 14 7-16-1-9-4-6-5-33-9-40-4-12zM1040 375l-6 9-16 53-6 13-5 5-6 3-17-1-7 3-12 12-5 8-5 3-7 18-2 1-2-5-1 2-12-54-3-9-7-11-9 20-7 27-11 28-9 8-21 0-5 2-6 6-1-2-14 17 2 0-2 4 3-1-2 5 10-1 19 7 1 2-3 10 9-4 1 5-2 7 7-12 1 6-2 8 2-5 2 0-2 12 5-13 2 0-2 13 7-37 11 5 5 0 5-3 4 11 7-7 3 12 7-11 3 14 6-14 3 15 5-13-3-17-3 0-2-16 2-1-1-6 4-4 1 3-2 4 8-1 5 2 16 11 8 0 5-4-2 15 5-6 0 11 5-10 2 0-2 13 2-5 2 0-2 13 3-7 5-32-2-1 0-6 3 0 1-5 18 14 8 1 7-5 4 12 8-13 1-8 9-21-12-64-5-20zM113 185l-5 11-9 53-21 193-3 1-2 23-2 0-2-8-1 6-3-6-7 0-5-6-6-3-13-1 3 27 12-2 6 3 8 9 3 7-1-10 2 0 3 9 0-8 6 17-1-7 2 0 1 4-1-12-5-14 7-3 8 1 11 11 4-17 9 18 2-15 2 0 6 17 3-16 6 19 4-15 6 19 3-15 7 17 3-13 6 12 4-11 11 14 13 5 11 7 4-7 7 9 3-5 2 4 3-5 2 4 3-4 3 6 7-6 7 1 0-4 4 4-13-24-3-3-2 1-11-12-14-11-10-17-2-6 1-3 1 2-1-6 0 3-2 0-3-8-29-124-13-47-11-30zM231 163l-6 18-6 33-20 182-3 1-3 30 8-1 1-2 5 2 0 2 10 9 7 15 4-19 6 17 3-18 7 20 3-17 7 20 2-14 2 0 3 14 3 5 2-13 2 0 3 9 3-13 8 18 4-11 10 13 12 6 4-8 13 12 3-6 5 8 3-5 3 4 7-6 7 1-2-3 2-1-5-8-10-11-1 2-19-17-9-15-14-48-20-88-15-55-12-32-13-26zM350 131l-5 11-8 41-20 185-3 0-3 30 14 1 11 11 4 8 4-19 8 22 4-18 6 19 3-16 7 20 2-14 2 0 3 11 3-14 7 18 3-14 6 14 4-11 12 17 2 0 3-10 17 11 7 8 3-5 3 3 3-5 2 4 3-4 2 5 6-4 9 3-10-18-10-10-1 2-17-14-10-18-13-46-29-123-17-49zM587 39l-6 13-8 42-23 214-3 2-1 16-2 3-2-5-1 2-2-2-21-92-22-81-11-29-13-27-4-4-7 19-8 48-22 200 10 0 4 2 15 24 4-18 9 23 3-17 6 20 3-16 2 0 5 19 2-14 2 0 4 11 3-15 9 21 3-13 4 9 6 7 4-11 9 7 13 6 7 7 3-7 5 7 3-5 4 9 6-8 3 6 8-6 6 3-1-3 2 0 0-3-12-20-3 0-30-28-6-12 2-2-1-3 4-2 6 0 7 4 11 17 3-16 2 0 5 14 4-17 8 25 4-16 4 11 3-16 9 25 2-14 2 0 6 12 3-14 11 16 22 7 10 9 3-9 7 12 3-7 2 4 3-6 2 6 3-6 2 6 3-4 3 6 10-8 5 0 5 3-1-4 2 0-1-2 2-1-3-1 2-1-2-1 1-2-8-16-6-4-12-19-28-25-7-14-12-41-30-127-20-56z"/>
<path fill="#0069cb" d="M478 648l-3 5 3 19 3-6zM567 520l-3 2-4 8-15 52-9 17-6 4-10 0-1-2-13 1-8 5-6 8 6 0-3 6 16 4 8 0-2 10 7-5 1 4-2 6 5-8 0 9 0-2 2 0-2 11 4-10 2 0-2 11 5-10 4-20 7 1 6-3 3 9 6-8 4 12 6-12 3 13 4-8 2 0 2 13 6-15 2 2 2 14 2-5-3-21-3 0-4-29-10-45zM685 498l-6 8-15 52-7 15-4 4-1-2-5 4-20 0-6 4 3 0-2 4 7 0 6 3-3 5 3 1 6-2 1 3-2 5 5-5 1 3-2 6 3-5 0 8 2-6 2 0-1 8 1-3 2 0-1 8 2-6 2 0-2 13 5-30 7-5 4 8 6-7 3 10 5-6 3 11 6-13 2 1 2 12 4-10 3 15 7-18-1-9-4-6-12-60zM803 466l-9 19-10 36-9 21-4 4-2-1-6 3-17-1-6 4-1-1 0 2 3 0-2 4 12 1 3 2-3 6 9-1-3 7 5-4 0 6 3-4 1 1-2 9 2-6 2 0-1 8 1-3 2 0-1 8 7-17 1-10 6-3 4 7 6-6 3 9 5-6 3 11 3-9 4-4 3 12 4-9 3 14 4-10 2 1 2 14 2-5-4-26-4-6-11-56-4-12zM50 438l-1 6 2 11 8 10 5 11-2-13 2 0 5 16 0-7 2 0 2 10-2-9 1-4-7-25-5 0-4-6zM921 425l-9 20-7 27-11 28-9 8-9 0-2-2-13 1-12 11-1 5 10-1 7 2 1 2-3 7 10 1 5-4 1 2-3 9 4-5 1 1-2 10 4-8 2 0-2 11 3-6 0 9 5-13-1 15 4-18 0-10 3-4 3 1 3-2 3 9 4-1 5-5 2 2 1 8 7-9 3 11 5-8 3 13 6-14 3 14 5-10-3-21-3 0-11-59-5-16zM1040 375l-6 9-11 39-11 27-11 8-17-1-7 3-8 8-1-2-5 5-9 14 0 3 2 0-1 3 4-2 8 0 16 6 2 3-3 10 5 0 6-4 1 5-2 7 5-7 0 11 3-6 2 0-2 12 6-15 1 3-3 15 3-7 6-37 7 4 9 0 4 11 8-7 2 2 2 11 6-9 3 12 9-17 0-7 3-8-8-45-9-39zM113 185l-5 11-7 39-20 181-3 1-3 29 8-1 7 2 10 11 3 7 4-18 9 22 3-17 7 19 3-16 5 13 2-14 2 0 5 19 2-13 2 0 4 11 3-14 6 16 4-11 8 15 4-9 7 8 16 10 2 0 2-6 5 4 2 5 3-5 2 3 3-3 3 4 8-3 0-7-13-14-16-10-10-17-11-37-13-60-24-92-11-30zM231 163l-6 18-10 62-17 155 3 4-3 24 5 0 7 4 4-22 7 9 6 14 3-18 2 0 7 24 4-18 6 21 3-16 5 14 2-14 2 0 3 12 3-14 7 19 2-10 2 0 1 5 3 3 3-10 6 13 3-8 10 12 2 0 3-6 13 11 3-5 5 5 3-3 2 4 5-2 0-2-20-18-8-14-4-3-13-45-20-88-15-55-12-32-13-26zM350 131l-7 19-7 40-20 180 6 0 12 8 0 4 12 20 3-19 6 17 3-17 7 20 2-16 2 0 6 21 2-14 2 0 3 13 3-15 7 19 2-11 2 0 1 6 3 3 3-10 6 13 3-9 8 10 4-6 16 13 3-5 5 5 3-3 2 3 4-1 2-3-1 1-6-8-14-11-7-13-5-4-13-46-29-123-17-49zM468 91l-5 11-7 35-21 192-3 1-3 30 12 0 10 8 4-20 11 21 2-17 2 0 8 25 2-17 2 0 4 12 3-16 6 21 2-14 2 0 4 12 3-14 6 17 4-12 6 13 3-10 7 10 8 7 5-8 17 14 3-5 2 4 3-5 3 4 3-3 2 4 8-1-1-2 2-2-5-7-21-18-1 2-4-3-11-19-12-40-15-69-22-81-11-29-13-27zM587 39l-8 21-7 41-22 209 14 3 14 24 4-18 9 23 3-18 6 20 4-17 6 20 3-16 7 19 2-14 2 0 6 13 3-13 4 9 8 9 4-11 19 10 11 12 3-7 4 8 3-6 3 4 2-4 3 6 6-7 2 5 5-2 4 1-1-4 4 1-1-2 2 0 0-2-10-17-38-35-7-14-12-41-30-127-20-56z"/>
<path fill="#0072c6" d="M567 520l-3 2-4 8-7 27-13 36-2 2-2-1-6 7-17 0 3 1-1 3 5 1-2 4 8-1-3 6 3 0-2 6 5-7 0 6 3-4 1 1-2 6 1 8 3-9 2 0-1 8 4-8 4-17 3 1 2 5 4-4 3 8 5-6 3 10 6-12 3 11 5-9 3 13 4-10 3 15 5-11-3-21-3 0-11-56zM685 498l-6 8-17 57-5 4-8 12-1-1-1 5 2-2 1 6 2-3 2 4-1 7 1-3 2 0-1 6 0-2 2 0 0 7 4-22 3 0 4-4 3 6 5-6 3 8 4-8 3 10 1-5 4-4 3 11 4-10 3 13 1-5 4-5 3 15 2-9-4-23-4-6-9-43zM803 466l-9 19-14 47-14 16-1 4 2-2 2 3-1 5 2-3 2 3-1 3-1-2 1 6 2-4 0 7 1-4 2 0-1 10 4-23 7-6 3 5 5-6 3 8 4-8 3 10 5-9 3 11 4-10 3 13 1-6 4-5 3 15 2-5-4-26-4-6-8-39-4-12zM921 425l-9 20-7 27-10 26-10 8-19 1 5 0-1 4 8 1-3 5 5-2 1 2-2 4 3-3 2 1-2 6 1-2 1 1-2 9 5-10 0 7 1-4 2 0-1 9 1-3 1 4-2 8 6-14 3-19 3 4 4-3 3 7 7-8 3 9 4-7 3 11 5-9 3 12 6-15 2 3 1 11 4-8 1-7-3-17-3 0-8-42-5-16zM1040 375l-6 9-11 39-11 27-11 8-15-1-2-2-9 4-9 9-3 7 8-3 1 2-3 6 16 5 7-1 1 4-2 6 5-4 1 1-2 10 5-8 0 10 4-8 0 10 5-13 1 3-3 14 3-7 4-25 3 3 12-2 3 9 9-9 3 11 4-7 2 2 1 11 7-14 3 14 7-16-1-9-4-6-14-71zM28 375l5 46-2 2 3 28 10 0 6 3 5 6-2-20 7 12 4 12-2-13 2 0 5 16-3-21-16-41-10-19zM113 185l-5 11-9 53-19 169 8 1 10 7 0 5 4 4 7 16 4-19 6 17 3-17 7 20 2-15 2 0 4 13 3-15 6 22 3-14 5 12 3-11 4 11 3-10 7 14 3-8 4 6 4-6 9 11 3-5 6 5 3-3 5 4 5-1-8-6-8-10-7-19-5-5-30-127-13-47-11-30zM231 163l-6 18-6 33-17 155-3 0-3 31 14 4 10 12 4-20 9 20 3-19 4 15 3 4 3-17 6 22 3-15 2 3 3 12 3-15 4 14 3-12 5 13 3-11 4 13 3-10 5 11 3-8 4 9 3-5 2 3 3-3 3 4 6-4-2-1-9-32-4-4-24-103-15-55-12-32-13-26zM350 131l-5 11-8 41-17 157-3 0-3 31 14 4 8 10 4-23 11 24 3-18 6 19 3-16 2 0 5 21 3-16 5 15 3-15 4 14 3-13 5 14 3-11 4 12 3-10 5 11 3-8 4 9 3-5 3 4 3-4 2 3 6-4-2-1 1-2-10-30-3-1-34-142-17-49zM468 91l-5 11-7 35-12 98-6 67-3 0-3 31 14 4 12 16 4-20 9 22 3-19 7 20 2-16 2 0 6 21 2-14 2 0 3 13 3-15 5 14 2-12 2 0 5 17 3-11 5 10 3-9 4 8 3-7 6 8 4-5 9 9 3-4 7 6 5-2-15-16-8-22-2 0-3-5-21-92-22-81-11-29-13-27zM587 39l-6 13-8 42-20 188-3 1-3 30 13 0 9 8 4-21 11 22 2-18 2 0 8 25 2-17 2 0 4 12 3-16 6 20 3-15 7 20 3-14 7 15 3-12 6 12 4-10 7 9 15 10 2 0 3-7 9 10 3-5 3 4 3-5 2 4 3-2 2 4 9-2-2-3 2-2-7-11-9-9-8-3-13-12-7-14-12-41-30-127-20-56z"/>
<path fill="#007bc2" d="M567 520l-3 2-4 8-14 49-5 5-7 14 2 1-2 1 1 2-2 0 1 3 1-2 2 3-2 2 0 7 1-3 2 0-1 6 10-24 3 5 5-7 3 7 2-4 3 9 4-9 3 10 5-10 3 12 4-11 3 14 4-8 1-7-3-17-3 0-8-39zM685 498l-6 8-9 33-7 12-8 21 2 3-2 2 1 3 1-2 2 8 6-21 3 3 2-4 3 4 2-4 3 7 5-10 3 9 1-3 2 0 2 9 4-11 3 12 1-6 4-6 3 14 2-5-3-20-5-10-6-28zM803 466l-9 19-6 23-6 10-8 21 2 3-2 7 1-2 1 4 0-2 2 0 0 6 5-22 3 3 2-4 3 4 2-4 3 6 2-4 3 8 5-9 3 10 4-11 3 12 5-12 3 14 2-9-4-20-4-6-9-36zM921 425l-9 20-11 38-13 20 2 0 0 12 1-4 2 0-1 15 9-28 3 4 3-3 3 6 4-8 3 8 5-9 3 10 1-3 2 0 2 10 3-9 2 0 2 12 4-8 3-11-3-19-3 0-10-42zM28 396l3 30 10 1 5 4 11 16-2-10 1-6 6 15-1-15-8-23-3 2-11-11zM1040 375l-6 9-11 39-11 27-3 0-8 6-17-1-4 2 3 1 0 3 9 1-3 6 6-2 3 1-3 7 3-3 3 0-1 5 1-2 1 4-2 6 3-5 0 8 3-8 2 0-1 8 1-3 1 4-2 8 6-14 2-16 4-3 3 1 2 5 7-6 3 9 4-6 3 10 4-8 4 12 6-15 3 14 5-10 3 15 2-5-4-26-4-6-11-54zM113 185l-5 11-7 39-17 154-3 0-3 31 10 1 5 3 7 9 4-22 11 24 3-18 6 19 3-16 2 0 3 13 3-16 7 24 2-13 2 0 3 13 3-13 3 5 2-10 5 14 3-9 4 10 3-6 3 5 3-5 2 4 3-3 2 4 5 0-1-2 3 0-3-6 1-2-8-27-2 0-2-4-12-56-24-92-11-30zM231 163l-6 18-6 33-18 157 6 2 8 8 8 11 2 6 4-20 9 23 3-18 7 22 2-16 2 0 3 14 3-15 5 16 3-14 4 16 3-12 5 15 3-10 2 6 3-7 2 5 3-5 2 5 5-4 4 0 3 3 0-7-2-2 1-2-2-2 1-2-5-19-3-1-20-87-15-55-12-32-13-26zM350 131l-5 11-8 41-18 159 14 10 8 11 2 6 4-20 9 23 2-17 2 0 6 20 2-15 2 0 3 13 3-15 5 16 3-14 4 15 2-10 2 0 2 5 3-10 4 15 3-8 2 6 3-6 3 5 5-5 3 0 3 3-2-16-5-18-3-1-29-123-17-49zM468 91l-5 11-7 35-19 167 6 1 9 7 12 25 3-21 5 9 4 16 3-18 7 22 3-17 5 15 3-15 4 15 3-14 5 15 3-12 4 14 2-9 2 0 1 4 3-8 5 11 3-6 2 5 3-4 2 4 6-1-2-3 3 0-7-27-3-2-18-78-22-81-11-29-13-27zM587 39l-6 13-8 42-17 160-3 0-3 32 10 1 5 3 8 9 3 7 4-21 9 22 3-19 7 20 2-16 2 0 6 21 2-15 2 0 3 13 3-15 7 21 3-13 4 11 3-10 2 0 3 9 3-10 7 12 3-7 8 9 4-5 11 9 3-3 5 4 4-3 3 1-20-18-7-16-4-3-12-43-28-119-20-56z"/>
<path fill="#0084bd" d="M567 520l-3 2-4 8-9 33-5 6-6 17 2 2-3 0 3 6 4-10 3-1 2-4 6 7 2-4 3 7 5-11 3 9 1-4 2 0 2 10 4-12 3 13 4-9 1-7-3-15-3 0-5-24zM685 498l-6 8-7 25-4 4-6 20 1 4-2 2 2 1 0 2-2 0 1 5 3-6 1-11 4-3 4 4 3-6 3 5 2-6 3 7 1-4 2 0 2 8 1-4 2 0 2 10 5-13 3 13 2-9-3-15-4-5-6-24zM803 466l-9 19-4 16-3 2-7 21 0 3 2 1-3 3 2 1-1 3-1-2 1 6 3-6 1-11 3-5 5 4 3-6 3 5 2-6 3 7 2-6 3 9 1-4 2 0 2 10 5-13 3 13 2-9-3-15-4-5-7-26zM921 425l-9 20-7 26-3 1-7 19 1 2-2 0 3 7-1 2-1-1 1 5 6-19 4 3 2-4 3 3 2-4 3 6 3-5 3 9 4-11 3 10 1-6 4-6 3 12 4-13-3-17-3 0-7-28zM42 388l-1 7 2 12 12 21-1-18-6-14zM1040 375l-3 3-7 17-11 39-13 19 3 8-1 3-1-2 1 4 1-4 2 0-1 15 6-15 1-9 3 1 4-6 4 6 2-3 3 7 4-8 3 9 5-9 3 11 4-10 3 12 5-10 3 14 2-5-4-25-4-6-8-38zM113 185l-5 11-7 39-14 126-3 0-3 31 7 2 8 6 9 13 4-20 9 21 3-18 6 20 3-15 2 0 3 14 3-15 4 14 3-12 5 16 3-11 4 15 3-10 3 7 3-7 2 6 3-5 2 6 6-5 3 1 0-5 3 4-7-31-3-1-20-87-13-47-11-30zM231 163l-6 18-6 33-14 127-3 0-3 31 13 6 4-24 3 4 1-2 2 2 0 6 9 17 3-19 7 18 2-16 2 0 6 21 3-15 4 16 3-14 5 16 2-11 2 0 1 7 3-10 2 7 3-8 2 7 3-5 3 7 6-5 5 4-1-4 1-1 1 2 1-2-2 0 1-4-5-21-4-4-15-67-15-55-12-32-13-26zM350 131l-5 11-8 41-14 129-3 0-3 31 8 3 4-26 8 5 0 4 12 23 3-20 3 5 4 14 3-18 7 23 3-16 4 16 3-14 5 16 2-11 2 0 1 6 3-10 2 7 3-8 3 8 2-6 3 7 6-6 6 4-1-2 2-3-2 0 1-4-5-23-3-1-13-58-18-65-11-30zM468 91l-5 11-7 35-15 136-3 0-3 32 6 1 13 12 4-22 5 7 6 17 4-20 6 20 2-17 2 0 6 22 3-15 5 16 3-14 4 15 2-11 2 0 1 6 3-10 5 15 2-7 2 0 1 5 6-11 2 7 6-2 3 3-1-3 3 1-2-2-2-14-4-14-3-2-12-56-22-81-11-29-13-27zM587 39l-6 13-8 42-18 162 10 4 6 5-1 2 5 6 7 16 4-21 8 25 3-18 2 0 3 13 3-17 7 23 3-15 4 15 3-14 5 14 3-11 4 13 2-9 2 0 1 5 3-9 5 11 3-5 2 4 3-4 2 4 3-2 6 2-9-32-3-1-33-138-20-56z"/>
<path fill="#008db8" d="M567 520l-3 2-4 8-5 19-4 4-8 26 1 3 0-6 4-6 5 2 3-6 3 3 2-6 3 5 2-6 3 8 2-6 3 9 3-4 2 10 4-9 1-7-3-13-4-4-4-16zM685 498l-6 8-3 11-3 1-8 34 6-15 3-1 5 4 2-6 3 4 2-6 3 7 2-5 2 0 2 9 2-6 3 11 2-9-6-24-3-1zM803 466l-9 20-3 1-8 35 3-6 1-9 5-3 5 4 2-7 3 5 2-6 3 7 3-7 3 10 2-6 3 11 2-9-6-23-3-1-2-7zM921 425l-5 9-6 19-3 2-7 30 2-6 3-3 3 0 2-5 6 7 2-6 3 7 2-6 3 9 1-6 4-6 3 10 4-13-3-16-3-1-4-14zM1057 421l-3-1-7 3-3-3-8-2-9 5-7 0-7 18 1 3-2 1 2 3 0 9 6-19 4 1 2-4 3 3 3-4 2 6 1-3 3-1 2 7 1-4 2 0 2 9 4-11 3 12 5-12 3 14 2-9zM25 371l3 28 8 2 11 12-5-28-10-10zM113 185l-5 11-7 39-15 128 13 9 11 23 4-20 9 25 2-16 2 0 3 13 3-15 5 16 3-15 4 17 2-11 2 0 4 16 3-10 2 7 3-7 2 7 6-9 3 7 5 0-2-5 1-2 2 2 0-5 1 2-6-29-3-1-15-67-13-47-11-30zM231 163l-6 18-6 33-11 99-3 0-3 31 16 12 6 11 4-23 8 22 4-19 6 21 3-16 5 16 2-14 2 0 3 16 2-11 2 0 1 6 3-10 3 8 3-8 2 7 3-5 2 7 6-4 3 0 3 4-1-5 3 0-1 1-1-3 1-2-5-20-4-5-11-50-15-55-12-32-13-26zM350 131l-5 11-8 41-11 100-3 0-3 32 8 4 11 13 4-22 5 8 6 18 4-19 6 21 3-16 2 3 3 13 3-15 4 17 2-12 2 0 2 6 2-10 3 9 3-9 2 7 2-4 2 0 1 6 6-5 6 3-1-4 3 0-1 1 1-1-3-3 2-2-2-2 1-3-5-20-3-1-8-38-18-65-11-30zM468 91l-5 11-7 35-16 138 14 13 8 14 4-21 9 23 2-17 2 0 6 21 3-16 4 16 3-15 5 17 2-12 2 0 1 6 2-9 2 0 1 6 3-8 2 7 3-5 3 7 1-3 2 0 2 7 6-2-2-3 1-3 4 6 1-2-2 0 1-4-6-27-3-1-12-54-18-65-11-29-13-27zM587 39l-6 13-8 42-14 131-3 0-3 32 13 6 7 8 3-24 12 24 3-19 6 19 2-16 2 0 6 22 3-16 5 16 3-15 4 16 2-11 2 0 1 6 3-11 5 16 3-9 2 7 3-7 2 6 6-6 3 6 2 0-2-4 3 0-1-3 2 0-6-26-3-1-28-119-20-56z"/>
<path fill="#0096b4" d="M556 535l-6 23 3-4 1 5 4-8 5 4 2-6 6 14 5-14 3 10 2-9-3-12-5-2-3 1-5-3zM677 505l-5 16 2 0-2 8 2-5 4-3 5 4 3-7 6 14 4-15-3-10-7-3zM797 472l-7 20 1-2 1 3 5-4 5 4 2 6 3-7 3 7 4-14-3-11zM921 425l-6 14-5 5-6 23 5-10 2 1-1 5 2 0 1-5 2-1 5 7 3-5 2 6 3-7 3 10 4-17-3-10-4-3zM1054 409l-8-5-15 4-1-2-5 0-5 20-2 1-2 7 2 2-1 5 4-13 2-2 6 2 2-5 3 4 2-6 3 6 1-4 2 0 2 7 1-4 2 0 2 9 5-12 3 12 2-9zM113 185l-5 11-7 39-11 98-3 0-3 31 8 4 9 10 4-23 11 24 3-19 7 20 3-16 4 16 3-15 5 16 2-11 2 0 3 16 3-10 3 9 2-8 2 0 1 7 6-10 2 8 2 1 0-10 7 4-6-28-4-5-15-65-20-61zM231 163l-6 18-6 33-12 101 11 9 0 4 11 18 4-19 9 25 2-16 2 0 3 13 3-15 5 17 2-12 2 0 1 7 3-11 4 18 3-8 3 9 3-8 6-5 5 4 0-6 3 7-4-21-5-9-24-94-11-29-13-26zM350 131l-5 11-8 41-12 102 9 7-1 3 6 6 8 16 3-19 2 0 3 12 3 4 3-17 6 22 3-15 5 17 2-12 2 0 1 6 3-11 4 18 6-16 3 9 4-5 5-1 5 9 1-2-2 0 1-5-5-23-3-1-6-29-18-65-11-30zM468 91l-5 11-7 35-12 107-3 0-3 32 10 7 4-26 3 3 1-2 2 2 0 5 10 19 3-20 7 19 2-16 2 0 3 16 3 6 3-15 2 4 2 13 2-13 2 0 1 7 3-11 5 18 6-16 2 7 6-5 3 9 2 0-1-8 6 5-2-1 1-3-2-2 1-3-5-20-3-1-8-38-18-65-11-29-13-27zM587 39l-6 13-8 42-15 133 9 5-1 2 7 7 7 13 4-21 9 23 3-19 6 22 4-16 4 16 3-15 5 16 2-11 2 0 1 6 3-11 4 16 3-8 3 8 6-12 3 8 2-2 6 2 0-10-5-23-3-1-24-100-20-56z"/>
<path fill="#009faf" d="M566 520l-5 3-7 19 1 2 3-6 0 6 4 0 3-7 6 9 2-7 3 8 2-9-6-15-3 0zM684 496l-4 3-4 11 3 0-1 4 5 0 1-6 2-1 5 8 2-8-5-9zM802 464l-8 15 2-2 0 5 5 0 1-6 2-1 5 8 2-9-3-6zM925 426l-4-1-5 4-8 23 4-7 0 5 5-2 2-7 6 8 2-7 3 7 2-8zM1040 375l-6 9-3 10-4 3-5 21 1-3 4-2 6 2 2-6 3 4 3-6 3 6 2-6 3 9 1-4 2 0 2 9 2-9-6-23-4-2zM113 185l-5 11-7 39-12 100 6 5 10 14 3 8 4-21 5 9 4 14 3-17 5 14 3-15 4 17 3-14 5 18 3-11 2 8 2-7 2 0 1 7 6-10 3 10 5 0-2-8 1-1 4 5-3-21-4-4-22-87-11-30zM231 163l-9 33-11 89-3 0-3 31 6 4 9 11 4-24 11 23 3-18 6 20 4-15 4 15 2-12 2 0 4 16 3-11 2 8 2-7 2 0 1 7 6-11 2 9 6 0-2-8 1-1 4 6 1-2-2-2 0-8-4-16-4-3-18-72-12-32-13-26zM350 131l-5 11-5 23-11 90-3 0-3 31 13 12 3-24 4 4 10 22 3-18 7 20 2-15 2 0 3 15 2-13 2 0 4 17 3-12 2 8 2-7 2 0 1 7 6-11 3 9 5-1-1-9 5 8 0-5-2-2 1-3-5-21-3-1-20-76-10-27zM468 91l-5 11-5 23-11 91-3 0-3 31 16 15 3 7 4-22 5 8 4 13 3-18 7 21 2-15 2 0 4 16 2-13 2 0 1 7 3-12 4 18 3-8 3 8 1-6 4-6 3 9 6-1-2-4 1-4 4 7-5-31-4-5-12-50-12-39-17-39zM587 39l-6 13-8 42-11 102-3 0-3 32 13 9 4-25 13 24 3-20 9 26 2-16 2 0 4 14 3-15 4 17 3-14 5 18 3-11 2 7 3-8 2 7 6-11 3 8 5-1 3 2-1-5 1-1 1 2 1-4-7-27-3-1-8-38-18-65-13-34z"/>
<path fill="#00a8ab" d="M569 519l-3-1-4 3-3 11 5-5 6 5 2-9zM920 423l-5 11 6-2 3 3 2-8zM1040 375l-6 4-8 23 6-4 6 2 2-7 3 5 2-7 3 7 2-9-3-7-3-1zM113 185l-4 7-5 25-11 88-3 0-3 31 10 8 4-24 6 8 7 17 4-19 6 18 3-15 5 15 3-14 4 17 3-11 3 9 3-9 2 8 2-5 2 0 1 8 6-5 6 5-1-5 1-1 2 3-8-31-3-1-16-64-11-30zM231 163l-6 18-6 33-9 72 2 3-1 2 8 8 8 14 4-19 9 22 3-16 5 15 3-15 4 17 2-11 2 0 1 7 3-9 3 9 3-7 2 9 6-5 3 0 3 4-1-3 2-2-2-1 1-4-2-1 1-3-4-16-4-5-15-57-11-29-13-26zM350 131l-5 11-5 23-8 63-6 30 11 11 8 14 4-19 9 22 3-16 5 14 3-14 4 16 2-11 2 0 1 7 3-9 3 9 3-7 2 9 6-6 6 4-1-3 2-3-2 0 1-5-6-23-3-1-15-57-10-27zM468 91l-5 11-5 23-12 93 9 9-1 2 5 6 7 15 4-20 8 24 4-16 4 15 3-14 5 16 1-10 2 0 2 8 3-10 2 8 3-6 2 8 6-6 6 4-1-6 3 0-1 1 1-1-3-3 2-1-2-3 0-7-3-11-3-2-18-67-11-29-13-27zM587 39l-6 13-4 18-12 97-3 3-3 29 11 9 8 12 4-22 9 21 3-18 7 21 3-16 5 17 3-14 4 17 2-10 2 0 1 7 3-9 3 9 2-6 2 0 1 7 6-7 3 0 3 3-3-26-3 0-17-72-10-31-10-25z"/>
<path fill="#00b2a6" d="M1039 373l-4 4-2 7 3-3 3 0 6 9 2-8-3-6zM113 185l-4 7-5 25-8 62-3 3-3 26 11 11 6 10 4-20 9 21 2-16 2 0 3 13 3-15 5 16 2-10 2 0 3 16 6-16 2 8 6-5 6 5 0-9-5-23-4-4-11-42-11-30zM231 163l-9 33-8 62-3 0-3 30 6 6 4-24 10 15 4 11 4-17 5 9 2 10 3-15 5 15 2-11 2 0 1 6 3-9 2 8 3-6 2 8 6-6 6 5 0-9-5-21-4-4-10-37-11-29-13-26zM350 131l-5 11-5 23-8 63-3 0-3 30 3 3 4-24 3 3 1-2 2 2 0 4 7 11 4 11 4-17 5 9 2 9 2-14 2 0 4 15 3-13 2 8 2-9 2 0 1 7 3-7 2 9 6-6 3 0 3 4 0-9-3-14-4-4-5-22-17-49zM468 91l-5 11-5 23-8 64-3 0-3 30 13 14 3-23 12 23 3-17 6 19 3-14 5 16 3-13 2 8 3-9 2 8 2-6 2 0 2 9 6-8 5 4 0-6 3 7-6-26-3-1-17-62-17-39zM587 39l-6 13-4 18-12 97-3 0-3 32 2-3 3-24 3 3 1-2 7 8 0 4 11 21 4-19 6 19 4-17 4 15 3-14 5 17 2-11 2 0 1 7 3-10 2 9 3-7 2 8 6-6 3 0 6 9-5-30-4-4-19-72-13-34z"/>
<path fill="#00bba2" d="M113 185l-4 7-5 25-8 62-3 0-3 29 1 1 4-25 3 4 1-2 13 25 4-17 7 17 3-15 4 14 2-11 2 0 4 16 2-9 2 0 1 7 6-11 2 9 6 1-1-7 1-1 2 3-2-13-10-24-6-25-10-27zM231 163l-6 18-8 53-3 1-3 26 12 17 4-20 5 7 6 18 4-15 4 13 2-12 2 0 4 15 2-9 2 0 1 7 6-12 2 8 6 1-1-6 1-1 2 3-5-23-4-2-6-25-12-32-13-26zM350 131l-7 19-8 54-3 1-3 26 12 17 4-20 4 5 5 13 3-16 5 10 2 10 2-12 2 0 1 6 3-10 5 17 6-12 2 8 6 0-1-6 1-1 3 5-6-25-3-1-18-56zM468 91l-5 11-5 23-9 65 2 3-1 3 6 6 8 14 4-19 9 23 2-14 2 0 3 13 2-12 2 0 2 6 3-10 4 18 6-13 3 9 5-1-1-9 4 6-5-25-4-4-9-33-11-29-13-27zM587 39l-6 13-4 18-9 70-3 0-3 30 15 18 4-22 11 25 2-16 2 0 4 12 3-15 4 16 3-13 4 16 3-8 3 9 6-13 3 9 2-2 3 1-1-10 3 4 2-1-6-23-4-4-7-31-10-31-10-25z"/>
<path fill="#00c49d" d="M113 185l-5 11-9 59-3 1-3 26 10 12 4-20 11 23 2-14 2 0 4 11 3-13 4 15 3-10 2 8 3-7 3 9 6-6 6 5-9-36-3-1-13-40zM231 163l-6 18-10 57 14 23 4-18 9 23 3-14 4 14 3-10 2 7 3-7 2 8 6-6 6 5 0-7-6-20-3-1-14-42-13-26zM350 131l-7 19-10 58 14 23 4-18 6 15 3-14 5 13 1-7 2-3 4 15 3-7 3 9 5-8 6 5-3-20-3-7-3-1-13-40zM468 91l-7 19-8 54-3 1-3 27 6 7 4-23 13 24 3-16 7 19 3-14 4 15 3-10 3 8 3-8 2 8 6-7 6 4-1-3 2 0-3-1 2-3-2-2 1-2-5-18-4-2-4-17-11-29-13-27zM587 39l-6 13-4 18-10 71 2 3-1 3 6 6 8 15 4-20 9 23 3-16 4 13 2-11 2 0 4 16 3-10 2 8 3-7 2 8 6-7 3 0 3 4 0-12-5-20-4-4-9-33-13-34z"/>
<path fill="#00cd99" d="M113 185l-5 11-6 37-3 1-3 24 12 18 4-17 7 13 2 8 3-14 5 13 3-10 2 7 3-7 2 7 6-6 6 6-6-25-4-4-10-29zM231 163l-6 18-5 31-3 1-3 24 3 4 4-19 14 24 3-14 4 11 2-10 2 0 4 14 3-9 2 7 6-6 6 5-9-31-3 0-7-20-13-26zM350 131l-7 19-5 31-3 1-3 25 3 4 4-20 11 20 4-15 6 16 3-11 5 15 3-9 2 7 6-7 6 5-9-31-3 0-6-18zM468 91l-7 19-5 32-3 1-3 24 10 15 4-19 9 19 3-15 5 12 2-10 2 0 3 14 3-8 2 7 6-6 3 0 3 4 0-6-6-20-3-1-11-31-13-27zM587 39l-8 21-8 55-3 1-3 27 6 7 4-23 13 24 3-16 7 18 3-13 4 14 3-10 3 8 3-8 2 8 6-7 3 0 3 3-6-30-4-2-7-25-10-25z"/>
<path fill="#00d694" d="M113 185l-4 7-4 24-4 6-2 14 12 21 4-15 7 16 3-11 4 13 3-8 3 7 6-7 5 6-6-22-3-6-3-1-3-11zM231 163l-8 30-3 2-3 20 5 9 4-16 9 16 3-11 5 11 3-8 2 6 3-5 2 6 6 0 0-7-6-16-5-5-13-28zM350 131l-5 11-4 20-3 2-3 20 6 10 3-17 9 17 3-12 5 11 3-9 2 7 3-6 2 7 3-2 3 1 0-7-6-16-4-3zM468 91l-5 11-4 20-3 2-3 21 12 20 4-15 7 15 3-11 5 13 3-8 2 7 2-5 4-3 3 0 3 4-8-26-5-4-12-29zM587 39l-8 21-5 32-3 1-3 25 10 15 4-19 9 19 3-15 7 20 2-10 2 0 1 6 3-9 2 7 6-7 3 9 3 1-2-6 1-1 3 5-7-27-4-3-13-37z"/>
<path fill="#00df8f" d="M113 185l-4 7-1 9-4 5-5 30 2 0 3-15 10 19 4-11 5 10 3-8 2 5 3-5 2 7 3-2 3 2-6-21-3-6-4-2zM231 163l-4 13-4 4-3 15 5 11 4-13 7 13 3-9 5 11 6-8 4 4-10-24-3-1zM350 131l-5 14-4 4-3 16 6 10 3-13 7 14 3-10 5 11 4-7 3-1 3 2-10-23-3 0zM468 91l-5 14-4 4-3 16 11 19 3-13 7 16 3-10 2 6 3-6 2 6 6-1-1-3 2 0-7-18-5-4-10-22zM587 39l-6 13-4 23-4 6-2 14 12 21 4-15 7 15 3-12 5 14 3-9 2 7 3-6 3 8 5-2-1-5 2 0-3-12z"/>
<path fill="#00e88b" d="M113 185l-6 6-5 26 2 2 3-13 9 17 3-9 4 10 6-8 4 1-2 0 1-2-2-1 1-1-8-16-4-2zM231 160l-4 5-4 15 4 8 3-10 4 8 4-6 2 4 5 0-8-18zM350 129l-6 9-3 11 4 8 3-10 5 8 3-6 2 4 3-2 2 1-8-18zM468 91l-2 4-3 1-4 13 6 13 3 3 3-10 4 10 3-6 2 4 4-2 4 4-10-23-3 0zM587 39l-4 7-3 13-4 5-5 31 1 2 4-17 11 19 3-13 5 11 1-7 2-3 4 13 6-9 6 2-9-23-4-2z"/>
<path fill="#00f186" d="M111 184l-4 7 7 12 3-5 2 4 3-2 2 1-7-16-3-2zM468 88l-6 10 4 7 3-6 5 9 3-3 2 1-5-12zM581 46l-6 23 0 9 4-14 9 16 3-10 5 10 2-6 3 6 3-3 3 1-4-13-7-13-10-1-3-5z"/>
<path fill="#00fa82" d="M587 37l-3 2-4 9 6 12 3-7 3 5 5-3z"/>
</g>
<g clip-path="url(#f12c)"><use href="#f12s" filter="url(#sb)"/></g>
</g>
<g font-size="8.2" fill="#222">
<text x="353.2" y="1040" text-anchor="middle">Function Topology</text>
<text x="217.2" y="1199.1" text-anchor="end">0</text>
<text x="217.2" y="1161.6" text-anchor="end">50</text>
<text x="217.2" y="1124.1" text-anchor="end">100</text>
<text x="217.2" y="1086.6" text-anchor="end">150</text>
<text x="329.9" y="1259.6" text-anchor="end">-10</text>
<text x="301.6" y="1246.7" text-anchor="end">-5</text>
<text x="273.3" y="1233.8" text-anchor="end">0</text>
<text x="245" y="1221" text-anchor="end">5</text>
<text x="216.7" y="1208.1" text-anchor="end">10</text>
<text x="340.9" y="1260.4">-10</text>
<text x="377.8" y="1250.5">-5</text>
<text x="414.7" y="1240.6">0</text>
<text x="451.6" y="1230.8">5</text>
<text x="488.5" y="1220.9">10</text>
<text x="273.3" y="1263.3" text-anchor="middle">x<tspan font-size="6.4" dy="2.5">2</tspan></text>
<text x="405.7" y="1266.3" text-anchor="middle">x<tspan font-size="6.4" dy="2.5">1</tspan></text>
<text transform="translate(199.4,1141.9) rotate(-90)" text-anchor="middle" xml:space="preserve">F12( x<tspan font-size="6.4" dy="2.5">1</tspan><tspan dy="-2.5"> , x</tspan><tspan font-size="6.4" dy="2.5">2</tspan><tspan dy="-2.5"> )</tspan></text>
</g>
<g font-family="Liberation Serif, Times New Roman, serif" fill="#000" stroke="#000" stroke-width=".5">
<text transform="translate(289.3 1317.8) scale(.875 1)" font-size="46" font-style="italic">F</text>
<text transform="translate(312 1327.5) scale(1.15 1)" font-size="31.3">12</text>
</g>
</g>
<g id="f13">
<path d="M686.1 1246.3L573.8 1194.4M573.8 1194.4L573.8 1081.1M759.2 1226.4L647 1174.5M647 1174.5L647 1061.2M832.4 1206.5L720.1 1154.6M720.1 1154.6L720.1 1041.3M686.1 1246.3L832.4 1206.5M832.4 1206.5L832.4 1093.2M629.9 1220.4L776.3 1180.5M776.3 1180.5L776.3 1067.2M573.8 1194.4L720.1 1154.6M720.1 1154.6L720.1 1041.3M573.8 1194.4L720.1 1154.6M720.1 1154.6L832.4 1206.5M573.8 1156.6L720.1 1116.8M720.1 1116.8L832.4 1168.7M573.8 1118.9L720.1 1079.1M720.1 1079.1L832.4 1131M573.8 1081.1L720.1 1041.3M720.1 1041.3L832.4 1093.2" fill="none" stroke="#444" stroke-width="0.6" stroke-dasharray="0.7 2.6" opacity="0.4"/>
<g transform="scale(.1)" fill="none" stroke-width="8" stroke-dasharray="30 12">
<path stroke="#0027eb" d="M6681 12165l-212-90-191-96 215 89 105 51 83 46M6754 12147l-63-20-157-70-148-71-32-18-8-10 11-3 23 6 201 83 177 91 8 9-12 3M7773 11870l-64-20-160-69-177-90-8-10 12-3 22 6 198 84 180 90 9 9-12 3M7852 11847l-215-90-105-51-83-46M6323 11785l174 63-10-13-89-50 109 33-4-10-86-49M6417 11759l136 46-2-10-88-48M6476 11743l107 41 18 0-88-51M6525 11730l70 27 50 13-84-50M6574 11717l59 23 60 18-83-51M6622 11703l118 42-34-25-48-26M6671 11690l115 42-23-21-56-31M6719 11677l116 43 5-6-84-47M6769 11664l109 42 26 3-65-38-8-11-16-9M6815 11651l109 42 28 4-63-46 113 44 34 7-78-50-49-26M6909 11626l202 76 9-5-62-37 21 1 53 16 8-13 168 60-61-39-91-48 20 0 361 147 307 162-4 7-108-44-90-31 20 11 9 11 92 52-39-1 9 11 20 11-2 8-77-29-22 0 155 89-174-64 10 14 89 50-109-34 4 11 87 48-137-45 2 9 92 51-10 4-114-44-18 0 88 51 9 11-91-35-50-13 119 73-107-43-60-17 124 74-171-62 34 25 87 48-167-60 23 21 71 40-26-6-117-43-5 6 90 50-13 3-115-45-26-3 65 39 8 11 17 9-110-42-28-5 63 46-113-43-34-7 78 50 50 26-202-76-10 4 62 37-21-1-53-16-8 14-168-61 61 39 91 49-20-1-361-147-307-162 4-6 108 43 90 31-20-10-9-11-92-52 39 1-9-11-20-11 2-8 77 29 22 0-155-89"/>
<path stroke="#004ed8" d="M7446 12304l-248-98 10 11 125 69-170-61 27 23 66 37-196-74 15 16 133 70-15 1-152-62-82-29 116 71-108-32 27 21-13-2-163-63-12 4 213 115-320-130-91-34 164 93-34 2-91-34-232-102-322-156-39-25 17-9 211 80-68-40-191-99M7643 12250l-55-18-139-56 4 10 123 66-13 3-153-62-26-4 102 56 35 24-126-50-62-19 137 80-151-61-63-20 190 105M7689 12238l-194-75 26 21 125 65M7736 12225l-196-76 63 40 91 47M7784 12212l-107-44-90-31 154 86M7832 12199l-146-60-51-14 154 85M8031 12144l-236-92 39 27 127 68-183-68 34 26 107 56-58-18-126-50 3 10 130 69-11 4-147-60-27-3 116 62 35 23M8190 12003l-260-103-12 3 129 72 1 5-51-15 8 12 53 34-163-58 56 35 131 68-8 5-156-64-39-9 149 86-82-32-57-15 123 74-113-46-68-21 200 110M6706 12288l-391-171-366-178 6-6 403 172 366 183-18 0M6491 12241l-243-106-225-111 18 2 41 16 193 86 184 88 31 18 1 7M5985 12058l209 92 195 95M6040 11862l160 64 12-4-129-72M6092 11848l41 12-4-9-15-9M6134 11836l101 37-73-44M6193 11820l58 17-39-22M7020 11595l50 19-15-15-17-9M7070 11582l101 36-73-44M7118 11569l45 11-23-18M7149 11560l163 63 12-3-132-72"/>
<path stroke="#0075c4" d="M7149 12385l-262-108-14 3 127 67-16 1-75-26 1 9 19 17-249-97 100 56 168 84-17 1-395-165-16 1 173 89 10 13-53-7-418-184-391-190-9-11 4-9 31 6 198 83 7-5-201-105M7245 12359l-103-41-45-12 70 41 13 14-161-66-53-15 192 102M7290 12346l-119-49-60-19 141 79M7340 12333l-144-59 20 18 94 49M7385 12320l-100-39 22 19 52 27M7433 12307l-114-45 39 26 49 26M7483 12294l-107-40 83 46M7530 12281l-81-28 60 34M7578 12268l-43-18-34-7 57 30M7626 12255l-59-24 8 12 32 17M7674 12242l-64-26 46 31M7723 12228l-70-26 53 31M7772 12215l-72-26 55 31M7822 12202l-72-24 53 29M7871 12188l-39-15-31-6 50 27M7920 12175l-68-27 11 13 36 19M7968 12162l-74-30 53 35M8018 12148l-103-40 79 47M8071 12134l-119-44 92 51M8119 12121l-63-25-46-13 82 45M8168 12107l-109-45-43-11 121 65M8226 12092l-179-69 37 25 103 54M8319 12066l-229-92 27 22 140 72-36-8-94-35 21 19 85 46M5744 11942l469 203 252 122 262 134M5899 11900l146 57-116-65M5994 11874l22 9 10-4-18-8"/>
<path stroke="#009db1" d="M6997 12426l-265-108 63 38 123 65-63-22-37-8 21 19-83-31-214-89 34 24 289 148M7054 12410l-203-81 49 31 117 60M7091 12400l-67-25 16 16 27 16M7139 12387l-119-48 10 13 81 43M7191 12373l-105-38 83 44M7228 12363l-25-8 18 10M7282 12348l-54-16 38 21M7331 12335l-24-9 15 11M8155 12111l-28-8 20 10M8211 12096l-46-19 31 23M8256 12083l-23-8 16 10M8309 12069l-99-40 76 46M5756 11939l96 40 51 15-122-62M5852 11913l24 9-19-10"/>
<path stroke="#00c49d" d="M6906 12451l-173-73-15 2 156 79M6934 12443l-14-4 9 5M6991 12428l-121-47 97 53M7042 12414l-72-30 54 34M7131 12390l-10-5 7 5"/>
<path stroke="#00eb8a" d="M6897 12453l-27-11-41-11 52 27"/>
</g>
<path d="M573.8 1194.4L686.1 1246.3L832.4 1206.5" fill="none" stroke="#333" stroke-width="0.7"/>
<path d="M573.8 1194.4L573.8 1081.1" fill="none" stroke="#eee" stroke-width="0.7"/>
<path d="M686.1 1246.3l-2.9 0.8M629.9 1220.4l-2.9 0.8M573.8 1194.4l-2.9 0.8M686.1 1246.3l2.7 1.3M759.2 1226.4l2.7 1.3M832.4 1206.5l2.7 1.3M573.8 1194.4l-2.9 0.8M573.8 1156.6l-2.9 0.8M573.8 1118.9l-2.9 0.8M573.8 1081.1l-2.9 0.8" fill="none" stroke="#333" stroke-width="0.7"/>
<g transform="translate(567,1035) scale(0.25)" fill-rule="evenodd">
<path fill="#0005fc" d="M672 566l-9 0-1 4 2 5 3 1 5-3zM645 551l-3 1-1 4 2 5 3 1 3-1 1-5-2-4zM608 551l-3 1-1 7 2 8 3 1 6-4 1-6-5-6z"/>
<path fill="#0010f7" d="M764 562l-4 1-1 2 1 6 3 1 3-1 2-3-1-5zM718 551l1 15 2 5 6 0 5-9 4-3 2 10 4 3 3-1 6-8-1-5-11 0-2-5-8-1-7-4zM405 509l-5-3-3 1-4 13-5-8-6 0-3 8 0 5 2 4 4 2 6-2 4-8 7 4 3-1 4-5 0-3zM691 501l-5 14 1 4 3 3 7 0 8 8 7 1 7 6 10 2 4 4 6 2 4-1 7 5 8 0 7 4 5 0 4-2 2 3 3 1 6-1 2-5 0-4-2-3-5-2-4 3-2-3-2 0-6-5-8 0-7-6-8-1-9-6-6-1-6-6-10-3-4-6-6 0-3-4-5-2zM409 501l-1 7 3 4 11 0 0-6-4-1-3-4zM545 512l3 33 7 0 7-10 11-8 4-7 0-3 3-2 2 4 1 18 6 0 11-13 1 1 3 30 4 6 0-7 5 5 0 4 14-10 9-12 3 2 1 9 3 7 4 2 4-1 5-8 4-4 1 1 1 20 4 3 0-4 3 0 1 2-2 2 5-1 6-8 5 1 5-2 2-5 6-7 2 1 1 13 6 0 10-14-1-4-5-5-5-2-4 1-7-7-10-3-5-6-9-2-8-8-6-1-8-6-4 2-6 9-6 2 0 5-2 1-4-2-7-9-7-3-7-10-6 0-3 9-3 3-8-11-6-2-6-8-5-3-3 1-3 11-6-5-6 0zM494 490l-3 1-2 5 1 5 3 1 3-1 3-4-1-5z"/>
<path fill="#001bf2" d="M563 678l-3-8-4-2-6 3-9-1-4 3 3 0 5 4 9-2zM823 527l-4 3 1 4 3 1 4-3-1-4zM640 527l2 4 10 4 5 5 4 0-4-4-10-3-4-5zM802 523l0 6 8 4 3-1 0-6-8-4zM461 476l-7-11-4-2-4 3-3 16-5-5-3-7-3-1-4 3-3 14-1 1-4-6-6 0-4 12-11-10-4-8-2 0-4-6-6 0 0 6 5 3 9 17 8 7-3 4-7-6-4-8-10-9-6-11-6 0-2 5 0 5 5 7-1 2-9-9-2-4-4-2-3 1-3 11-6-6-6 0-3 18 5 9-3 11-2 0-3-6-6 0-6 16-1 8 1 2 7 2 6-3 8 2 8-4 6 2 9-5 11 0 4-3 1-4 3-1-1-5 3-7 6 9-2 3 3 1 12-2 3-4 9-3 4-5 8-3 10-11 6-2 4-8 12-8zM400 509l6 8-4 5-5-4zM490 460l-4 3 1 14 2 6 4 5-4 2-1 4 2 5 3 1 3-1 2-7 3 1 8-4 2-5-8-13-5-3-5-7zM466 454l-3 1-3 11 1 6 3 1 6-2 4-5 0-3-4-7zM512 462l-2 14 4 3 5-3 2 1 3 28 4 2 4-1 11-13 2 4 0 16 4 3 0 7-1-10 5-14 5 5 5 2 8 11 3 1-2 3 5-1 5-8 2 3 1-6 5 7 7 2 5-14 7 10 7 3 6 6 1 3 8 3 3 3 4-5-4-4 7-3 7-10 3 4 8 2 8 8 9 2 8 8 7 1 7 7 3 1-3 3 3 0 0-3 4-1 8 7-1 3 5-2 4 6 1-5 5 4 7 0 1 1-5 3 6-1 2 5 3 1 0-4 6 0 1 2-3 3 6-2 2-3 3-1 4 9 5 2 5-3 7-10 2 5 4 1 4-2 0-6 6-2 2-3 3 4 3 1 5-1 2-4-1-4-9 0-2-3-7-2 2-13 7-1 1-2-3-6-5-2-5 1-5-5-5-2-4 1-7-6-9-2-6-6-10-3-5-6-10-3-5-6-5-2-1 1-1-2-5-2-3 1-4 8-5 0-4 11-6-2-11-11-7-3-7-10-6-2-10-13-12-8-4 3-3 18 3 6 10 7-5 0-10-7-3 1-4 9-9 4-6-3-7-11-3-1-4 2-4 7-2 0-5-8-12-11-3-1-3 1-3 12-2 1-9-8-2-5-8-6-7-9-3-1-3 1-1 4 8 14 10 9 1 3-1 1-5-6-3-1-11-14-6 0zM780 543l4 3-2 6-3 0-2-2zM762 537l11 7-3 6-5 0-6-4zM719 517l7 7 5 0 10 7 7 0 4 4 5 2 2 2-2 7-4 1-9-6-5 1-9-6-5 0-6-3-4-4zM705 508l4 6 7 3-4 11-4 0-8-7zM694 503l4 3-3 12-2 2-4-4zM568 493l8 10 6 2 3 3-4 4-5 1-7-11-3-2z"/>
<path fill="#0025ec" d="M498 672l1 3 23 0 3-2 3 1-1-3-7-1-6 3-4-3zM591 680l-2-12-2-3-3-1-6 3-8-1-6 3-7-1-4 3 0 2 3-2 4 7 11-1 6 3 4-2zM695 665l6 0 9-3 10 2 2-2-4-3-5 2-1-2-5-1-7 4-4 0zM675 513l6 2 4-4-6-1zM236 499l0 9 6 3 7 13 3 1 9 9 6 0 0-7-12-11-5-9-3-1-5-7zM644 458l8 11 6 2 7 10 7 3 9 10 6 2 7 6 5-16 3 3-4 17 7 0 4-15 4 5 11 4 7 7 5 0 9 7 8 0 9 7 5-1 9 5 2 3-5 15 7-1 3-13 2-3 2 1 1 4-4 15 10 0-4 5-6 2-5-1-3-3-7 1-4 4 4-1 5 3-2 3 6-1 4 3 6-1 7-11 2 1 1 5 7 0 9-13 2 1 1 7 7 0 3-6 7-8 4 0 5-3 2 1 4-3 3-11-1-6-11-5-6 1-9-5-5 1-10-6-5 1-7-6-7 0-7-6-9-1-4-4-12-4-5-5-10-3-4-5-9-2-8-8-8-2-5-6-9-3-4-5-6 0-4 15-5-2-6-8-4-2-3 1-4 6-5-2-5-6-3-1-3 1zM772 515l4-1 7 6-4 1zM714 482l3 0 5 6 10 3 8 8 7 1 7 7 6 0 11 8-7 0-7-6-7 0-7-6-7-1-8-7-7-1-8-8zM708 478l3 2-2 5-4-2zM671 501l-3-2-4 0-11-12-7-3-8-10-7-4-2-7 4-14 3 4-1-8-7-8-4-2-5-9-13-12-4-8-5-3-4 3-3 20 9 15 11 9-3 6-5-2-12-13-7-5-3-5-6 0-3 10-2 2-7-9-6 0-4 11-7-11-8-8-3-1-4 3-2 13-2 2-5-3-4-6-6 0-1 4 5 9 7 5-4 4-6-6-4-8-10-9-6-11-8-7-2 0-2 15-1 1-3-5-1 3-7-9-1 5-4 3-2 11-3-5 0 3-2 1-10-10-3 7-2 14-9-11-7-4-2 21-2 5-7-13-8-8-2 19-2 5-4-8-6-7-5 19-3-5-1 6-4-8-2-1-4 11-8-4-2 5-2-3-3 0-7-10-1 5-4 3-2 10-3-5-1 2-3-5-8-6-2 3-3 15-12-15-4 18-3-5-1 6-7-9-2 11-4 8-2 16-1 1-4-3-8-10-4-2-4 3-3 17 8 13 8 9 3 1 4-2 7 4 10-2 6 3 8-3 6 0-3-2 7-21 6 10 4 0 4-16 0-4-5-7 3-15 3 3 1-2 6 6-1 2 8 13 7 5 5 9 7 7-3 3 10 1 3-1 1-3-3 1-4-5-5-3-7-13-7-5-8-13 2-10 3 4 1-2 5 6-1 2 6 6 4 9 10 8 5 8 4-7-5-9-10-10-8-13 2-7 7 12 10 9 4 8 11 10 4-12-11-12 1-2 6 4 8 10 3-15 2-3 3 5 6 6 1-1 2-13 3-8 4 8 9 9-1 3 3-1 4-7-3 2-2-1 3-18 1-1 9 13 3-1 5-7 0-2-4 0 2-11 1-1 3 4 1-5 2 4 4 1 3-1 4-5 2 1 0 5 3 8 2 2 1-5 7 5 10 14-7 5-8-7-2-5-2 0-1 15 4 4-1-4 2-1 3 3-1 3 4-1 4-4 2-5 6 0 5-8 2-7-4 3-1-2 4-15 6 6 4 7 4 2 11 15-3 3 4 0 2 3 3 1-1-3 3 0 3-7-3-4-5-3-4-8-10-9-3-5 1-2 6 4 6 6 2 5 14 13 5-19 13 12 5 9 3 1 8 9 4-2-1-2-10-7 3-1 5-8 6 10 8 5 10-4 3 3 5-13 3 4 8 3 8 9 8 3 5 7 11 4z"/>
<path fill="#0030e7" d="M519 674l32 0 5-4-7-1-5 2-7-2-7 3-1 2-2-4-4-1-3 1zM581 666l0 3 2-2 3 2 2 11 4 0 3-2 12 2 6-3-4-14-23-1-3 1zM740 659l-2-4-3-1-7 3-8-4-23 7-2 5 6 0 6-4 7 2 4-1 2 2 6-4 9 2zM357 652l3 0 10 6 6-1 9 6 7-1 7 5 8-2 7 5 3-1-4-15-4-3-5 2-5 0-4-2-10 2-5-3-10 2-6-4-6 2zM793 529l6-1 6 4 5-2 4 0 6 3 3-1-5-3-8 1-8-5-3 0zM835 543l2 3 6 0 6-9 6-5 3-1 7 2 9-5 6 1 5-2 3-6-4-3-6 1-6-3-8 1-7-4-11 2 3 2-3 13-4 0-4 3-1-3-3 2zM339 470l-3 4 6 11 10 11 4-3 0-2zM214 467l-2 7 1 4 6 9 8 7 7 12 11 8 1-6 3 3-1-6-6-3-1-5-6-9-9-9-5-11-4-2zM248 467l-2 14-2 1-2-3-1 4 6 11 6 5 0 7 2 4 9 9-3 7 4 5-1 1-4-4 2 6 5 2 6-1 8 4 5-1 1-2-3 0-1-3-5-3-10-15 4-16 3 4 1-2 5 6-1 2 8 7 3 7 3 3 4 1 6 8-4 2 6 3 4-2-4-2 3-3-3-6-9-8-5-9 2-15 2-4 1 2 2-17-2-4-8-8-3 16-11-18-4 17 0 7 3 5-1 2-9-8-6-10-8-8zM308 461l-4 23 3 5 4 3 3-25zM557 455l8 13 5 2-9-12zM351 455l-4 12 7 7 6 11 7 6 4-9-5-5-8-14zM440 452l2 4 6 5 6 12 4 4-2 3 5 0 1-7-3 3-6-10-9-9-2-5zM369 448l-5 20 6 4 5 7 4-19zM388 443l-4 19 0 7 5 5 5-24zM710 435l-4 16 6 6 8 2 8 8 9 2 4 5 10 3 8 7 5 0 4 2 5 5 8 0 9 7 5-1 7 6 8 0 9 6 6-1 9 5 5-1 3-14-4 1-6-4-8 1-8-5-7 1-9-6-8 0-7-6-7 0-5-5-4-2-5 0-7-7-8-1-8-8-8-3-7-8-7-2zM476 427l-5 10 6 11 5 4-6 6-14-16-4-8-2 0-3 5 6 12 9 8 3 5-2 3 2 1 3-1 4-6 1-7 4 0 2 5 3 1 0-3 4-7-2-5-7-6zM627 419l-5 19 3 1 6 6 5 8 6 3 5 6 3-14 2-3 5 6 5 2 9 11 6 2 8 10 10 5 4-2-1-2-9-3-7-8-7-2-8-9 5-8 7 9 7 3 3 3 4-18 1-1 3 4 0-5-3-4-6-2-10-10-6-2-8-9-6-2-7-5-3 1-5 15-2-3-3-1-2 1-6-3zM571 366l-3-1-4 3-2 24 6 11 10 9-4 14-4-2-4-7-12-10-6-10-6 0-3 6-2-3-2 3-10-9-1 8-2 2-1-2-1 6-7-12-4-4-3 12-1 13-6 8-3 11 10 9 4 8 10 9 6-12 3 3 3-21 2-4 9 9 10 15 2-2 2-11 2-3 11 16 10 7-9-9 6-17 7 9 3 1 12 13 5 2 5 6 4-15-7-8-5-3-8-13 3-18 1-1 3 4 0-5-6-6-8-14-9-8z"/>
<path fill="#003ae2" d="M494 673l10 2-1-3-5-2zM506 672l0 2 4-1 3 2 4 0 3-2-2-3-8-1zM592 666l-2-3-3-1-3 1-2 3-15-1-8 4-6-2-5 2-1 4 8-2 10 1 5-3 9 1 7-5 2 2zM594 664l0 2 12-1 2 3 2 10 5-1 6 3 7-4 6 2-3-19-8-1-7 4-2-3-3-1-14 2zM449 673l-6-24-3-1-7 4-8-2-7 3-8-2-4 3 4 1 4 15 8-2 6 4 8-2 6 4zM761 653l-8-4-4 2-2-4-3-1-4 2-13 1-8 5-9 0-3 6 3 1 2-3 8-2 2 3 9 1 4-3 2 4 4-3 8 2 10-5 3 2zM323 645l4 2 7-1 8 4 6-1 8 4 7-1-2-3-3-1-6 1-3-4-3-1-8 2-1 2-2-5-8-1zM835 513l5-1 9 5 8-1 6 4 9-1 6 4 6 0-4 3-9 0-6 4-7-2-4 1-1 3 2 10 4 3 3-1 6-9 4-3 7 4 3-1 2-7 3-4 7-2 6-4 3-19-14 0-5 3-9-3-5 3-3 0-6-3-8 2-6-3-5 0-4 3zM831 495l-3 0-4 13 2 1zM194 478l0 11-2 9 9 12 6 3 8-1 7 4 10 9 10 1 7 5 15 1-7-7 2-1 5 4 3-10-10-11 0-7-2-4-6-5-11-18-4 5 5 10-2 10 14 16 5 8-1 1-4-2-5-9-10-9-4-6-3 4 0 3-2 1-8-5-6-10-8-5-5-7zM211 460l-2 7-3-3 0 4 6 8 4 2 0-8 1-1 3 5 0-6-7-8zM332 459l-4 6 8 8 2 4 3-6zM271 457l-3 20-2 0-4-9-2-1-4 12 6 9 9 8 5 9 7 6 4-8-4-2-9-16 3-21zM350 454l-4 12 2 3 5-10 0-2zM723 445l-2 0-5 14 4-1zM427 435l7 7 6 11 4 3-9-15zM449 423l-4 8 8 8 2 4 4-7-3-6zM467 416l-4 12 8 8 2 4 4-12-2-4zM505 387l-4 31-2 0-5-10-8-9-5 18 9 8 8 13 5-14 4 0 4-30zM602 389l-4 18 6 10 13 12 5 9 2 1 2-1 3-16 1-1 5 4 3-2 5 6 4-4 2-11 2-3 4 4-5 16 3 1 3-13 3-3 10 10 6 2 10 10 6 2 7 8 10 4 5-15 4 5-7-8-4-1-8-9-7-4-4-7-10-8-10-13-4-2-8-12-6 0-3 18-2 4-12-12-9-4-3 1-3 6-7 0-5-3zM562 358l-3 23-1 1-11-17-3 0-3 26-3 0-2 11-2 0-10-13-4 19 10 13 3-18 1-1 2 2 2 5 4 4-1-3 4-11 7 11 12 10 2 5 10 7 5-21-11-11-5-9 2-22 1-1 3 4 0-5-2-4-5-5z"/>
<path fill="#0045dc" d="M514 671l3 4 6-3 7 3 7-3 4 1-1-5-3-1-12 0-7 4zM605 661l-1-2-6-1-9 5-8-1-5 3-1 4 7-1 4-3 9 1 5-4zM608 661l3 0 4 4 8-4 5 0 3 16 6 1 5-4 6 2 4-1-3-17-7-3-5 1-2-3-3-1-5 2-8 0-10 5zM355 650l4 2 5-1 6 4 8-2 7 3 5 0 3-2 6 2 7-1-1-2-8 0-1-2-6-2-8 3-1-2-5-2-9 3-2-3-6-1zM472 646l-6-1-5 3-8-1-6 3-6-2-3 1-1 4 3-2 2 3 4 20 4-2 7 3 11-2 7 3 3-2-4-24zM787 651l-1-2-7 0-2-3-10-2-2-5-3-1-4 1-3 3-17 3-3 5 6 1 3-2 3 7 6-4 2 4 4-1 3 2 6-1 6-4 10 1zM890 608l-4-3-7 3-1 2-5-1-5 2-1 4 5-2 4 1 5-3 4 1zM851 592l-8 2-2 3 1 30 2 6 2 0 1-4 4-2 4-32zM832 585l-10 3-2 3 4 46 4 3 5-5 3-47zM813 576l-10 4-4 6 6 55 4 3 3-1 2-7 3-57zM787 572l-3 1-4 5 1 31 4 3 4-3 2-34zM144 545l-5 25 8 9 9 2 4 6 10 3 6 6 9 2 8 7 5 0 9 7 9 1 5 5 8 0 9 7 6-1 6 5 9 0 8 5 3 0 2-2 4-24-2-3-9-4-7 0-9-5-6 1-4-4-5-2-5 1-7-6-8-1-9-6-6-1-6-6-10-3-5-6-8-2-9-9-4 0-7-7zM927 492l-4-1-6 5-6-1-10 5-5-1 4 1-2 15-4 4-9 3-3 3-3 8-3-3 1 4 3 1 5-2 10-13 4 3 5-1 3-6 2 0 9-9 5-2 5-9zM941 487l-8 0 0 8 3 1 5-2zM222 460l-3 12 5 10 9 9 6 9 4-11-6-10 2-4-6-7-2 4zM252 456l-5 13 11 12 4-13zM169 453l-3 17 7 11 7 5 8 12 6 2 4-1-3-2 2-7 3 4 0-4-4-6 1-4 5 7 5 2 4 4 4 8 7 4 8 8 3-15-4-7-8-7-8-14-8-7-5-10-3 5-2 12-2 1-6-3-2 4-4-7zM665 393l8 11 7 4 7 9 4 2-4-6-10-8-5-8-4-4zM542 360l-4 34 6 4 4-31zM610 335l-2 6-2 20-1 1-4-2-3 1-2 3-4 0-1 2-4-4-6 0-5 19 8 7 8 14 8 8 4-18 1-1 2 2 2 5 4-5 5 4 5-10 6 3 11 12 7 3 4-24 1-1 3 4-1-7-6-4-6-9-12-11-3-7-5-6-3-1-3-4z"/>
<path fill="#0050d7" d="M559 666l-2-3-3-1-5 3-7-1-7 3-1 4 3-1 1 2 6 2 9-4 6 2zM397 655l8 1 6-2 3 2 5 0 9-3-2-3-3-1-9 3-8-3-8 3zM670 671l-1-14-2-5-3-1-4 2-9 0-2-4-3-1-4 2-6-1-6 2-3 5-4-3-9 0-12 6-1 2 8 1 10-5 8 0 5-2 2 6 6-3 7 3 2 15 8-4 8 1zM495 641l-7-2-11 5-4-1-6 3-1 2 3 0 2 3 4 25 6-3 7 3 7-3 4 1zM734 614l-8 2-2 3 1 24 2 6 3 1 4-3 4-30zM715 603l-10 3-2 3 3 46 2 3 7-2 4-50zM270 606l3 3-5 25 5-1 9 5 8-1 7 4 8-1 6 4 8-2 5 4 6-1-1-8 4-20-1-8-7-3-8 3-8-3-7 3-7-4-9 2-6-4zM263 600l-4 1-1 2 4 1-5 25 3 1 4-25 1-1 3 2-1-4zM739 566l0 6 6 0 0-6-3 3-1-3zM776 558l-6 3-10 10 4 64-8 2 0-14-8 0-4 3 0 15 2 6 5-2 6 0 5-4 3 8 5-2 4 1 2 2 0 3 4 0 3-2 1 2 7-4 6 1 5-4-4-3-4 2-1-1 2-9 4-65-4-3-9 4-2 3 0 4 3-3 1 1-3 33-2-12 0-16-2 35 1 10 4 12-4 2-2-3-1-7-3-4 4-65zM949 537l-10 3-2 3 4 49 4 3 1-16 5-3 2-36zM213 535l-3 1-2 7-4 39 8 6 3 0 4-48-3-4zM866 534l-7 8-1-4-3 3 2 19 4 3 3-1 2-5zM934 527l-4-1-10 3-3 4-2-3-6 0-6 3-6 7 0-13-4-3-9 5-6 6-2 7 5 62-7 2 0-6-4-3-8 2-1 17 2 6 2 0 1-6 7-4 3 2 10-6 1 3 7-3 7 1 4-4 5 0 2-8 2-41 2-7 6 46 4 3 3-1 2-6 3-40zM909 511l-3 3-3 0-2 6-3-1 0-3 1 5 7 0 4-6zM86 496l-5 31 5 7 8 4 9 9 6 2 8 9 9 4 5 6 8 2 2 3 4-22 2-4 3 4 4 2-5 27 3 0 5-25 1-1 3 3-1-5-4-2-5 1-1-5-4-5-7-2-8-10-6-2-6-9-4-3-5-1-8-11-10-7zM196 488l3 5 10 9 4 7-5 1 7 7 6 3 8-1-4-5-8-5-4-7-8-6-7-9zM215 450l-5 12 9 9 2 4 3-14zM191 442l-5 28 11 8 4-24zM154 430l-1 13-2 3-3-3 0 4 7 8 6 11 9 7-2 5 0 8 3 6 10 3 8 8 12 5 2-1-4-7-8-4-9-13-5-3-7-8 1-1-2-2 2-14-9-16-6-5zM637 361l-1 2 8 11 4 2 13 15 6 4 3 0-7-5-8-13-10-10-4-8zM601 317l-2 0-1 2-3 35-2 7-9-8-4 8-7-13-7-8-5 20 9 10 8 13 4-16 2-3 7 9 4-7 2 3 4-6 6 8 1-1 3-28 2-5 3 4 0-6-7-12z"/>
<path fill="#005ad2" d="M577 664l-2-6-3-1-9 5-10 0-2 5 3-2 2 2 0 4 4 1 7-4 8 2 2-1zM716 656l-4-3-1 3-2-2-3 4-3-1-5 2-1 4 1 1 8-4 4 1 0-2 3-3zM726 652l-6 0-2 5 6-2zM459 649l-2-3-7-1-8 4-6-2-9 4-1 2 8 2 6-4 8 2 5-3zM685 666l-3-18-12 0-2-5-4-2-4 1-3 3-7 0-4 2-7-2-7 4-4-1-15 8 2 0 2 2-1 1 4-3 8 1 5-4 11 0 2-2 3 8 3-3 9 0 3-2 2 4 1 14 8-4 5 2zM512 632l-18 6-5 4 4 2 3 29 7 2 7-3 5 0 3 2 3-1-4-35-2-5zM804 606l-11 3-1 25-2 7-5-20-7 1-5 3 0 5 1-1 2 2 3 14 4-3 6 0 2 7 3 0 4-3 1 3 6-4 8 1 3-2-1-12-4-3 0-3-1 14-2 0zM327 610l3 2-5 33 7 0 7 4 7-2 7 5 9-2 7 4 1-6-2-5-3-1 4-32-1-6-4-1-4 2-6-2-7 4-7-2zM673 580l-6 2-3 4 1 32 2 8 3 1 4-3 3-41zM696 578l-10 4-4 6 2 33 4 24 4 3 3-1 2-8 3-58zM913 572l-3-1-1 25-2 7-5-20-7 0-5 3 0 15 3 8 7-5 1 5 4-3 9 0 8-4-1-7-4-2zM647 567l-4 3 0 8 4 3 4-3 0-8zM730 561l-6 8-2-5-2 4 1 14 4 3 3-1 2-3zM757 553l-8 6-7 11-1-6-2 3 4 60 4 3 1-4 5-1 0 4 4-3 4-63zM996 550l-3-1-5 2-2 5 4-1zM825 544l-4 4-2-1 0-3-3 3 1 15 4 3 4-3zM968 538l-8 1-2 3 1 24 2 6 2 0 2-8 16-5-4-3-6 3-1-1 2-17zM874 526l-7 5-3 5-1 20-2 4-5-32-7 4-9 12-2-4-2 3 4 38 0 15 2 4 2 0 2-4 4-1 2 1 0 3 2 0-4 26 8-5 5 0-1-15 2 0 0-3 6-2 1 4 3-3 4-69zM982 525l-5 1-1 2 1 10 4 3 3-1 2-8-1-6zM943 484l-2-1-5 4-1-1-5 4-7 1-4 3 5 0 1 1-2 3 5-1 4-6 4 2 3-1zM131 477l-2 8-4 45 3 1 7 7 1 3 7 2 7 8 8 3 10 10 7 1 8 8 5 0 9 8 5 0 5 3 4-40 2-6 3 3-4 47 7 0 7 6 8 0 6 5 9 0 8 5 6-1 9 5 7-2 7 4 8-2 4-43-1-10-6 0-6-3-8 3-7-4-9 1-7-4-6 1-10-6-5 1-4-4-5-2-7 0-5-6-7-1-7-7-9-2-7-8-7-2-8-9-8-3-8-10-6-2-8-11zM998 465l-3 1-2 4 0 8 2 3 3 1 4-3 0-11zM179 463l4 9 9 8 5 10 3 1-4-8-10-9zM50 455l-2 8-3 34 3 1 9 11 8 4 6 9 9 4 4 5 4-32 1-1 3 3 0-5-3-6-13-11-4-7-9-7-7-10zM134 428l-2 6 0 11 9 14 6 4 0 9 3 1 10 11 6 1 5 3 1-12 1-1 2 2-3-5-9-9-6-11-8-8-7-14-5-3zM618 331l-4 6 1 3 8 6 5 10 10 9 4-3-1-3-8-7-8-15z"/>
<path fill="#0065cd" d="M590 654l-4-1-8 5-8 0-1 4 3-2 1 1 1 9 7-5 11 0zM730 652l-1-2-7-3-10 5-1 4-3-3-1 5 1 2 2 0 2-4 7 1 8-5zM486 643l-2-3-5-1-7 4-11 0-4 4-1-1-3 2 9 3 4-3 4 0 3-2 5 1zM530 625l-7 2-3 3-6 1-5 4 0 2 3-2 2 4 4 35 7-4 8 2 6-3-4-38-2-5zM397 596l-13 0-9 5-5-1-7 3-1 4 3-1 1 3-5 36 5 1 1 8 7-3 8 4 7-3 3 1 6-50zM598 591l-8 2-4 4 3 52 2 3 3 1 4-3 4-56zM678 578l-7 3-1 2 4 1-3 39-2 0-1-17-1 7 0 17 2 9-6 1-2 6 3-2 2 2 1 6 11-2 2 1 2 18 6-4 10-1 1-4-3-21-3 0-1 6-1-6-3 4-5 0-4-19 3-43zM932 561l-2 0-1 3-1 26-2 5-5-31-10 3-1 2 5 30 3-2 1 1 0 5 4-2 7 1 7-6-3-31zM659 557l-9 4-6 8-1 16 4 56-8 2-2 2-2 6 4-3 4 1-4 3 1 1 4 0 6-5 8 0 5-88zM739 553l-8 5-3 5-1 17-2 2-2-14-1 27 3 27 2 0 2-4 5-1 1 4 3-3 4-45zM711 553l-8 9-1-5-3 4 2 27 4 3 3-1 2-6 2-23zM336 550l-8-1-7 4-8-2-7 4-7-3-7 3-1 3 4 0-4 51 4-1 6 4 8-3 7 3 7-3 7 3 3-1 5-58zM809 543l-7 10-2-1 0-2-2 0-1 2 1 25 2 7 3 1 4-3 3-31zM837 530l-6 4-6 7-2 4-2 17-2-18-2 20 3 24-7 3-2 29 2 26 7-6 8 1 1-3 3 0 6-4-2-34-4-3-2 37-2 3-1-1-4-44 2-2 7-2 1 4 3-3 3-29 0-17zM987 524l-7 2-2 5-1 11 1 12 2 4 7-2 4-29zM905 516l-4 4-2 0-1-3-2 0 0 8 6 0 4-5zM946 480l-2 3-3 0-4 5 2 2-3 3-1-7-2 1 0 18 2 6 3 1 4-3 1-19 4-6zM975 468l-4-1-11 8-6-1-3 2 5 33 6 0 2-3 1-17 4-5 6-3 1-2zM1018 450l-4 1-2 5-2-1-10 5-5 7-1 27 4 54-7 1-1 4 13-3 2-2 0-5 3-3 3 0-1-17 4-61 6-1 2-3 0-5zM998 468l0 11-2-2 0-6zM91 437l-2 8-3 47 3 6 10 7 8 11 7 2 8 11 6 2 5-51 1-1 3 5 0-6-1-2-8-4-4-7-11-9-7-11-4-2-5-6zM32 431l-5 50 6 3 10 12 5 2 4-40 1-1 3 4 0-5-8-8-4-8-7-7zM134 422l-4 2-1 11-1 1-3-5 0 6 4 5-1 11 3 5 4 2 9 11 5 2 3-1-3-3 1-7-3-4-4-2-8-12 1-13 1-1 3 4 0-5-2-4zM603 308l-5 11 9 7 9 15 4-8-9-16z"/>
<path fill="#0070c7" d="M604 641l-9-1-1 10-2-2 0-7-2 11-5 2-1 2 4 1 1 9 9-5 8 0zM510 635l-5-2-8 0-11 6-8 0-1 4 15 0 10-5 6 0zM545 618l-10 1-1 3-5 2-2 3 0 2 3-1 2 4 4 38 6-3 6 2 5-3-3-40-2-7zM687 615l-11 4 0 6 5 23 4-2 7 1zM668 612l-11 3-2 33 4 0 7-6 7 1zM636 600l-10 2-1 2 2 24 2 5 3 1 4-3 4-24-1-6zM854 597l-2 0-4 31 9-5-1-23zM426 585l-11 0-10 6-4 0-9 4-1 5 3-2 1 4-5 44-2 1 1 5 7 3 4 0 6-3 7 3 4-1-1-6 5-3 2-8 4-44zM842 569l-8 3-2 28 3 35 4-2 7 1zM622 554l-2-1-11 12-1-5-3 4 1 5 6 0 3-7 6-3zM791 551l-8 9-2-1 0-3-3 3 1 21 4 3 0-4 6-7 3-16zM720 544l-6 4-5 7-3 32-2 0-1-15 0 32-8 4-2 33 3 24 7-5 7 1-4-51 2-2 7-2 1 4 2 0 0 2-3 1-3 42 3 0 7-5 1 4 3-2 12-1 4-4-6-2-1-13-2 0-3 15-2-5 0-8 0 5-2 0-2-43-2-14 0-25zM366 541l-7-1-6 2-3 4-5-1-13 6 3 3-5 58 10-4 8 2 6-4 5 2 3-1 5-56zM818 535l-7 5-4 5-3 36-2 0-1-5 0-13-2 24 4 3-1-3 4-5 7-3 1 4 3-3 3-22zM876 530l0 6 6 0 1-4-2-1-2 2zM904 518l-5 5-1-5-2 2-1 4 2 6 6 0 2-7zM926 494l-5 8-9 6 2 5 1 24 4 3 1-6 4-3 3-30zM181 493l-5 22 3 1 8 9 6 0 9 8 7 1 7 7 8 0 7 6 7-1 10 6 5-2 3-22-4 1-9-6-8 0-7-6-7 0-7-7-7 0-8-7-9-3-6-7zM137 427l-1 2 7 8 2 5 9 8 2 4 3 1-10-11-9-17zM105 405l-3 14 1 5 7 5 5 10 12 11 1 3 3 1 1-14-6-6-5-10-8-7-6-12zM1050 400l-5 3-5 9-6 4-10 12-13 9-6 7-6 4-3 5-3-1-9 5-7 8-6 1-8 7-3 8-4 4-2-11-6 4-8 11-2 20-2-5 0-11-2 24 3 26-6 3-1 5 0 14 4 34 3-3 8 1-5-53 2-2 7-2 1 4 2 0-2 31 6-5 5 1-2-25 4-5 5 0 3 4-3 17 8-5 4 0-2-15 0-10 2 0 0-4 7-1 1 4 2 0-4 24 8-6 5 0-5-79 4-6 12-8 3 2-4 70-2 1 1 11 11 1 6-4 4 1 7-6 9 0 9-6 6 1zM972 470l1 8-7 4-4 6-1 17-2 2-3-22 5-3 3-5zM65 400l-4 3-4 59 4 6 9 7 4 7 13 11 1 3 4-50 2-7 3 4 0-6-6-10-6-4-8-14z"/>
<path fill="#007ac2" d="M528 627l-6-2-7 4-4-1-7 3-3 4-6 2 10-1 3 2 3-3 12-3 3-3 2 0zM603 621l-5 2-2 3-1 17 7 1 0 11 2 7 10-6 5 1 1-9-2-11-10-3-1-10zM776 613l-2 0-1 3 0 14 5-5zM563 606l-6 4-8 2-8-4-4 1-2 3 1 5 4 1 2 4 4 0 4 46 6-4 9 1 6-4-3-47-2-7zM725 583l-7 2-3 30 3 37 4-2 7 0zM454 570l-3-1-9 2-8 7-10 3-4 5 0 3 3-2 1 1-4 48-1 6-2 2-4-1 1 12 6-3 9 2 6-3 0-9 5-2 6 1 3-1 2-3 4-56zM674 565l-7 8-2-4-2 3 1 17 3 1 0-3 5-4 3-13zM779 553l-4 2-12 14-1-5-3 0-1 27-2 0-2 37-5 17-2-5-4-64-5 2-3 43-3 13 2 18 7-5 7 0 6-3 5-5 6-2-4-62 2 0 0-3 7-7 6-4 1 1 3-6zM860 550l-5 2-3 38 2 34 4-2 7 0zM553 550l-3 1-2 3 0 6 4 3 3-1 2-4 0-5zM696 547l-4 3-6 10-3 1-1-4-3 3 2 28 2 3 2 0 1-4 7-5 4-30zM799 543l-6 4-4 6-5 25 5-5 6-3 1 4 3-3zM969 538l0 7-4 19 9-3-1-20zM639 536l-8 5-4 7-7 5-3 5-4 2-4 7-1-6-3 5 3 50 2 8 3 1 3-1 5-14-1-5-3-1 3-32 2 0 3 33 4 3 0-4 6-1 5-59zM530 530l-4 3 0 10 4 3 4-3 0-10zM387 531l-3-1-5 3-8 1-11 9 4 1-5 64 11-5 7 1 6-4 5-60zM253 529l-4 23 5-1 5 4 11-1 6 4 8-3 9 3 6-3 4-19-8 2-6-4-8 2-6-4-8 1-9-5zM239 523l-5 24 7-1 4-22zM893 519l-14 15-3-3 0 3-2 2-3 67-3 11 9-6 6 0-4-68 8-9 4-2 3-7zM954 518l-2 0-1 3-4 57 5-2 4-4 3 1zM916 505l-8 6-6 9-2 8-2-9-2 8 1 17 3 1 0-4 6-6 6-3 1 4 2-1 2 3 2 0zM192 501l-5 24 7 1 4-23zM935 486l-6 4-5 6-4 39 3-4 8-2 1 4 3-3 2-16zM121 440l-2 3 1 4 8 11 5 3-3 16 6 4 6 9 6 2 8 10 8 3 9 10 6 1 5-23-10-3-5-7-6-1-10-11-6-2-7-9-7-5-4-8zM1048 427l-11 4-4 6-1 25 3 28-2 2-5 1-3 30-2 0-5-25-9 0-2 34 3 0 7-6 7 0 2 11 5 1 8-5 8 0-2-25 3-9 4-69zM1036 438l1 6-2 5-1-9zM131 424l6 6 4-1-6-7zM97 394l-1 9-1 1-3-2 0 3 10 17 4 1 1-1-2-2 3-13-3-6zM44 366l-4 3-5 67 7 7 4 8 10 9 4 6 4-62 1-1 3 3 0-6-6-11-9-9-6-13z"/>
<path fill="#0085bd" d="M611 618l-2 2-7 1-2 5 3-2 1 1 2 15 3-2 7 2 1 17 2 0 8-5-1-17-1-2-5 0-2-2-1-13-2 0-2 4zM758 562l-2 32 3 45 8 0-5-76zM797 561l-4 53 4-4 7-1-3-45zM682 557l-6 4-4 6-4 19-2 0 0-13-3 13 1 4 3 1 0-4 3-3 8-3 1 4 2-1 2-5zM472 558l-3-1-3 1-2 3-8 1-8 10 4 1-4 63-2 2-6-2-8 4 0 12 4-2 7 2 6-3 0-10 2 0 3-3 11-1 4-4 4-62zM819 556l-2 0-1 2-3 38 3-3 6-2zM621 554l-3 3-5 47 0 4 5 0-1 3 4-3 3-41zM838 553l0 3-3 4-1 15 7-2zM781 552l-4 2-5 10 4-3 1 1-3 39 1 27 3-3 7-1zM912 548l-2 24 7-4-1-17zM858 546l-2 0-1 10 5-3zM701 543l-7 5-5 36 7-3 1 4 2-1 2-5 2-16zM295 557l4-2 8 3 6-4 6 2 7-2 3-3 3-14-5 2-7-3-8 3-7-3-5 1zM640 535l-3 2-5 62 0 5 4-1 0 4 4-3 3-57zM875 527l-1 10 2 8 4 63 4 0-5-74zM542 520l-9 4-6 8-1 18 4 71-8 2-4 7-2-1-7 3 6 0 1 1-4 2 2 0 3-2 0-2 5-3 6 1 4-3 5 0 1-5 3 1 12-9 5 0 5-4 2 6 3 47 4-2 7 1 8-7 4 0-4-53 3 0-1-3 5-3 5-72-1-2-12 14-1-5-2 3-4-2-10 4-7 10-2-1-5 2-5 6 1 7 0-4 2-2 1 1 0 6 3-1 5-7 1 1 3 38 3 10-8 4-2-3-10-1-5 3-2-1 4-80zM538 613l3-2 5 3-2 2-3 0zM409 517l-8 6-6 0-11 5-3 4 0 3 3-2 1 1-5 67 4-2 7 1 10-6 4 1 5-68zM898 515l-7 5-5 12 7-5 1 1-4 63 5-5 7 0-4-49zM959 507l-7 3 0 20 4 42 7 1zM977 498l-5 1-3 42 3 21 4-3 6 0 1-2 3 0-1-13-1 11-1 1-2-3zM1016 497l-4 3 3 0 2 3 4 23 3 0-5-29zM1049 470l-3 1-2 33-1 1-2-3-3-12-6 2-1 2 3 0 2 2 2 8 4 5 2 25 6-2 4-4 3 1-3-50-2-8zM1015 455l0 7 6 0 0-7-4 4zM1006 442l-1-1-6 4-6 8 6 0 5-5zM93 403l-2 3-2 10 9 13 7 5-3 13 4 3 5 9 11 9 4 7 7 3 4-19-7-4-8-11 1-3-6-5-5-10-7-5-9-16zM40 359l-3 3-5 66 0 6 6 5 5-69 2 0 2 5 0-7z"/>
<path fill="#008fb7" d="M682 576l-2 0-1 3-3 44 10-5-2-37zM588 574l-1 16-8 3-3 4 0 4 2 0 5 57 3-2 7 0zM561 561l-11 4-1 2 4 37 3 0 4 6-4 1 1 2 3-1 7-7 8 0-5-9 0-4-8 0 3-28zM740 557l-2 25 5-3zM758 555l-1 9 2 2 3-3zM484 551l-4-1-7 2-7 7 0 4 3-3 1 1-4 69-4 3-11 1-6 4 1 12 4-2 8 2 6-5 3 0-1-12 4-2 6 1 4-3 5-67zM799 547l-2 17 3 39 2 7 2-1zM658 546l-12 13-1-3-3-1 0-2-3 51-3 3-4 24-2-4-4-51-1-1-5 2-2 32-4 11 2 19 5-4 2 1 1 17 4-2 5 1 4-2 6-7 5 0-4-69 2-1 3-6 7-5 3-12zM818 540l-2 18 3 34 4-1zM838 535l-2 26 3 13 3-2zM357 535l-3 1-3-2-4 0-6 4-5-2-6 1-6 18 4-3 8 1 9-5 8 0zM857 532l0 23 3-2zM898 517l-3 8 0 13 4 48 3 0zM603 517l-7 6-5 73 7-2 1 4 3-3 4-54zM935 515l-1 18-3 4 0 13 7-5zM916 509l-4 32 2 28 7-2zM430 503l-5 5-8 3-4 5-3 0-6 4 3 0-5 74 3 1 10-7 7 0 5-5 4-67zM975 495l-2 0-1 8 5-3zM1056 467l-9 3-1 6 3-3 2 7 3 48 8 1-4-53zM1006 440l-10 11-4 2-1 12 2 4-1 24-2 0-2 38-5 26 3 0 13-8-5-75 10-13 3-16zM1029 418l-7 9-13 9 3 2 1 16 2 3-1 18 4 3 0-3 4-5 7-3 2 4 4-10 0-22-1-1-6 3-1-1 3-17zM1028 444l1 1-4 3-7 12-2-2 0-4 7-8zM74 377l-3 15-1 1-3-5 0 6 12 12 1 3-2 4 0 5 5 8 6 4 8 13 8 5 4-16-7-4-10-13 3-11-7-6-4-9z"/>
<path fill="#009ab2" d="M477 628l-8 0-6 4 1 13 9 1 5-3zM597 618l-1 10 2 0 3-3-1-6zM549 614l-5 2-5-1-1 6 7 0zM682 561l-2 20 3 38 4-1zM557 554l-5 6 0-6-2 1-2 4 1 7 6 0 3-8zM642 553l0 3-3 5-1 34-2 12 3 41 3-3 8 0-5-89-2 0zM721 549l-3 39 7-2zM701 547l-4 32-2 34 4-4 7-2zM664 542l-8 5-4 16 7-3 1 4 2 1-1 18-3 4-2 34 5-5 3 0 2-2-3-53 2-5zM548 540l0 7 6 0 1-5-1-1-3 2-1-3zM375 531l-11 0-10 5-5 13 4-1 3-4 9-1 4-2 5-5zM935 492l-3 33 1 23 7-2zM445 491l-4 4-6 2-7 8-4 81 7-5 6-1 4-4 1-4 4-70zM974 481l0 21 3-2zM955 478l-3 35 7-3zM1029 477l-2 21 7-4-1-14zM995 465l-4 3-1 14 4 69 7 0-4-73zM1015 433l-6 3-5 6-5 25 4-5 7-4 2 4 3-5zM1040 409l-13 11-5 27 4-3 7-2 4-5 4-22zM63 383l-3 10 5 10 10 9 5 8 3-13-4-7-10-8-2-5z"/>
<path fill="#00a5ad" d="M559 611l-7 0-5 3-1 6 7-7 5 0zM488 568l-7 4-3 48-1 8-3 1 1 16 6-4 6 1 5-3-2-46 4-3 1-7-2-11-2-3zM622 557l-2 24 6-3zM607 548l-5 2-2 37-3 27 1 14 7-5 7 0zM664 544l-5 26 0 25 2 21 7-1zM518 530l-10 2-5 6 4 16 3 24 4 3 3-1 2-4 3-43zM568 527l-8 5-9 13-1-6-3 5 1 11 2 3-1 4-2 0-1-4-5 0-2 52 3 0 7-6 7 0 1-3 5-4-1-6-2 0-1 9-1 1-2-2 0-8-1 2-2-2-2-20 3-4 8-3 0 5 3-2 2-4-1-17 2-3-1-4 3-9zM561 547l1 1-5 4-5 12-1-9 7-7zM389 527l-10 0-4 2-8 13 7-6 8-1zM459 477l-12 9-4 6-5 87 5-5 9-2 4-8 4-75zM992 455l-1 17 5-3zM1015 452l-3 0-4 52 4-4 7 0zM1034 445l-5 29 2 21 7-2zM1052 395l-9 7-5 8-5 32 7-9 8-3 2 4 2-3 2-13zM49 366l-3 4 0 3 5 10 11 12 3-11-3-4-5-3-6-10z"/>
<path fill="#00afa7" d="M541 557l0 4 2-1 2 4 4 40 7 0-5-48zM565 549l-7 44 1 6 4-3 7-1zM641 538l0 23 4-3zM400 523l-9 1-6 5-3 6 7-7 5 0zM579 513l-3 2-5 9-5 4-5 19 5-2 6-8 4-1 4-19zM484 453l-5 4-5 7-2-1-5 6-3 1-7 9-5 93 7-8 8-1 5-9 8-3 4 2 0 5-3 4 0 13 4-1 3-3 2 2 2 14-5 4 2 50 8-5 5 1 5-4-3-44 2-3-3-21 2-4 2-17-1-5 2-4 0-6-4-3-6 4-1-1 4-36-1-2-7 8-1-5-3 0-1-27zM1015 436l-3 18 4 46 3 0zM41 357l-3 5 7 8 2 5 4-8z"/>
<path fill="#00baa2" d="M577 588l-1 13 5-5 0-5zM604 522l-2 31 5-2zM584 509l-7 5-5 23 7-3 2 4 3-5zM486 449l-9 7-6 9-4 98 7-8 7-2 4 21 8-8 7 0 3 16-2 8 3 46 7-5 5 1 4-2 1-4 4-3 6 0-4-86 8-10 4-31-2-2-8 10-5-4-2-24-2-2-5 5-1-2-5 8-6 3-5 5-3 33-2 0-1-18 0 32 2 0 1-4 9-7 0 12 3 1-1-3 6-7 6-1 3 2-2 31-2 7-1-6 0 10-2 3-6-32-1 1-2-2 0 2-2 1-1 12-2 4-5-11 0-4-10 0 4-68 0-20zM1052 400l-6 76 4-4 7-2z"/>
<path fill="#00c59d" d="M505 532l-3 20 7-3zM584 512l-5 32-2 35 1 20 4-4 7-2zM547 486l-8 5-3 5-5 36 5-6 6-3 2 4 2-3 2-11zM523 470l-7 4-4 5-4 58 3-3 8 0-4 42 3 55 7-6 7 0-4-76 1-21-4-15 0-28z"/>
<path fill="#00cf97" d="M528 514l-7 3-1 5 2-2 2 1 5 104 4 0z"/>
<path fill="#00da92" d="M547 490l-4 31-2 40 3-2 7 0z"/>
<path fill="#00e48d" d="M522 498l-2 24 7-4-1-17z"/>
<path fill="#00ef87" d="M524 475l-2 26 3 18 3-2zM490 466l-4 1-4 89 6-4 7 0z"/>
<path fill="#00fa82" d="M487 452l-1 18 4-2z"/>
</g>
<g font-size="8.2" fill="#222">
<text x="702.6" y="1036.8" text-anchor="middle">Function Topology</text>
<text x="567.8" y="1195.4" text-anchor="end">0</text>
<text x="567.8" y="1157.6" text-anchor="end">5</text>
<text x="567.8" y="1119.9" text-anchor="end">10</text>
<text x="567.8" y="1082.1" text-anchor="end">15</text>
<text x="679.6" y="1256.3" text-anchor="end">-5</text>
<text x="623.4" y="1230.4" text-anchor="end">0</text>
<text x="567.3" y="1204.4" text-anchor="end">5</text>
<text x="690.6" y="1257.1">-5</text>
<text x="763.7" y="1237.2">0</text>
<text x="836.9" y="1217.3">5</text>
<text x="623.4" y="1259.8" text-anchor="middle">x<tspan font-size="6.4" dy="2.5">2</tspan></text>
<text x="754.7" y="1262.9" text-anchor="middle">x<tspan font-size="6.4" dy="2.5">1</tspan></text>
<text transform="translate(549.8,1137.8) rotate(-90)" text-anchor="middle" xml:space="preserve">F13( x<tspan font-size="6.4" dy="2.5">1</tspan><tspan dy="-2.5"> , x</tspan><tspan font-size="6.4" dy="2.5">2</tspan><tspan dy="-2.5"> )</tspan></text>
</g>
<g font-family="Liberation Serif, Times New Roman, serif" fill="#000" stroke="#000" stroke-width=".5">
<text transform="translate(640.3 1317.8) scale(.875 1)" font-size="46" font-style="italic">F</text>
<text transform="translate(663 1327.5) scale(1.15 1)" font-size="31.3">13</text>
</g>
</g>
</svg>
</body></html>
